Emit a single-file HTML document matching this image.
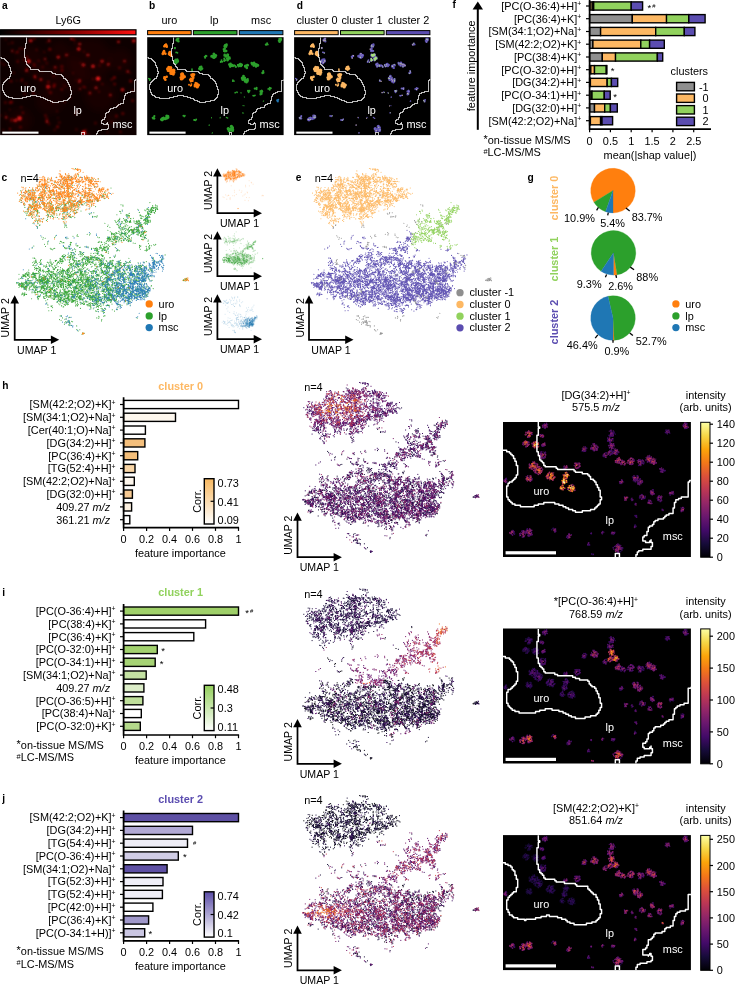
<!DOCTYPE html>
<html lang="en"><head><meta charset="utf-8"><title>Figure</title>
<style>html,body{margin:0;padding:0;background:#fff;overflow:hidden}svg{display:block;font-family:"Liberation Sans",Arial,sans-serif;font-size:10.9px;fill:#000}.b{font-weight:bold}.i{font-style:italic}.w{fill:#fff}.e{text-anchor:end}.m{text-anchor:middle}.ax{stroke:#000;stroke-width:1.7;fill:none}.tk{stroke:#000;stroke-width:1.2;fill:none}.bar{stroke:#000;stroke-width:1.4}.pt{fill:none;stroke-linecap:round}.ps{fill:none;stroke-linecap:square}.ct{fill:none;stroke:#fff;stroke-linejoin:round}</style></head><body>
<svg width="735" height="999" viewBox="0 0 735 999">
<clipPath id="cpa"><rect x="0.1" y="37.2" width="136.4" height="97.9"/></clipPath>
<rect x="0.1" y="37.2" width="136.4" height="97.9" fill="#0e0000"/>
<g clip-path="url(#cpa)">
<filter id="bl" x="-20%" y="-20%" width="140%" height="140%"><feGaussianBlur stdDeviation="0.8"/></filter>
<filter id="bl2" x="-20%" y="-20%" width="140%" height="140%"><feGaussianBlur stdDeviation="3"/></filter>
<g filter="url(#bl2)" fill="#4a0000"><circle cx="90.1" cy="60.2" r="22" opacity="0.15"/><circle cx="70.1" cy="75.2" r="18" opacity="0.15"/><circle cx="30.1" cy="60.2" r="14" opacity="0.15"/><circle cx="100.1" cy="95.2" r="16" opacity="0.15"/><circle cx="20.1" cy="120.2" r="12" opacity="0.15"/><circle cx="50.1" cy="100.2" r="14" opacity="0.15"/><circle cx="120.1" cy="60.2" r="12" opacity="0.15"/><circle cx="60.1" cy="50.2" r="10" opacity="0.15"/><circle cx="45.1" cy="75.2" r="12" opacity="0.15"/><circle cx="110.1" cy="120.2" r="8" opacity="0.15"/></g>
<g filter="url(#bl)"><circle cx="98.1" cy="78.6" r="2.2" fill="#ff1a1a" opacity="0.95"/><circle cx="78.7" cy="49.0" r="1.8" fill="#ff1a1a" opacity="0.80"/><circle cx="28.7" cy="61.2" r="2.0" fill="#ff1a1a" opacity="0.80"/><circle cx="48.1" cy="86.7" r="2.0" fill="#ff1a1a" opacity="0.80"/><circle cx="93.0" cy="66.3" r="1.8" fill="#ff1a1a" opacity="0.80"/><circle cx="83.4" cy="64.9" r="1.7" fill="#ff1a1a" opacity="0.70"/><circle cx="19.5" cy="118.4" r="2.4" fill="#ff1a1a" opacity="0.80"/><circle cx="58.3" cy="57.1" r="1.7" fill="#ff1a1a" opacity="0.70"/><circle cx="15.4" cy="120.4" r="1.8" fill="#ff1a1a" opacity="0.70"/><circle cx="122.5" cy="89.8" r="1.8" fill="#ff1a1a" opacity="0.70"/><circle cx="83.8" cy="132.7" r="2.2" fill="#ff1a1a" opacity="1.00"/><circle cx="30.7" cy="40.8" r="1.8" fill="#ff1a1a" opacity="0.70"/><circle cx="133.8" cy="40.8" r="1.7" fill="#ff1a1a" opacity="0.70"/><circle cx="102.1" cy="61.2" r="1.7" fill="#ff1a1a" opacity="0.60"/><circle cx="87.9" cy="55.1" r="1.5" fill="#ff1a1a" opacity="0.60"/><circle cx="108.3" cy="64.3" r="1.5" fill="#ff1a1a" opacity="0.60"/><circle cx="40.9" cy="79.6" r="1.5" fill="#ff1a1a" opacity="0.60"/><circle cx="118.5" cy="41.8" r="1.5" fill="#ff1a1a" opacity="0.60"/><circle cx="79.7" cy="43.9" r="1.5" fill="#ff1a1a" opacity="0.60"/><circle cx="26.6" cy="70.4" r="1.5" fill="#ff1a1a" opacity="0.60"/><circle cx="34.8" cy="76.5" r="1.5" fill="#ff1a1a" opacity="0.60"/><circle cx="66.4" cy="55.1" r="1.5" fill="#ff1a1a" opacity="0.50"/><circle cx="49.1" cy="40.8" r="1.5" fill="#ff1a1a" opacity="0.50"/><circle cx="110.3" cy="94.9" r="1.5" fill="#ff1a1a" opacity="0.50"/><circle cx="89.9" cy="92.9" r="1.5" fill="#ff1a1a" opacity="0.50"/><circle cx="47.0" cy="121.4" r="1.5" fill="#ff1a1a" opacity="0.60"/><circle cx="6.2" cy="117.3" r="1.5" fill="#ff1a1a" opacity="0.50"/><circle cx="79.7" cy="80.6" r="1.5" fill="#ff1a1a" opacity="0.50"/><circle cx="127.7" cy="71.4" r="1.5" fill="#ff1a1a" opacity="0.50"/><circle cx="71.5" cy="38.8" r="1.4" fill="#ff1a1a" opacity="0.50"/><circle cx="96.0" cy="87.8" r="1.5" fill="#ff1a1a" opacity="0.60"/><circle cx="114.4" cy="77.6" r="1.4" fill="#ff1a1a" opacity="0.50"/><circle cx="124.6" cy="61.2" r="1.4" fill="#ff1a1a" opacity="0.50"/><circle cx="12.3" cy="51.0" r="1.4" fill="#ff1a1a" opacity="0.40"/><circle cx="55.2" cy="67.3" r="1.4" fill="#ff1a1a" opacity="0.50"/><circle cx="44.3" cy="52.0" r="1.4" fill="#e01010" opacity="0.17"/><circle cx="73.2" cy="73.0" r="0.9" fill="#e01010" opacity="0.30"/><circle cx="5.2" cy="79.7" r="0.9" fill="#e01010" opacity="0.18"/><circle cx="58.0" cy="118.1" r="1.0" fill="#e01010" opacity="0.22"/><circle cx="85.7" cy="130.0" r="1.3" fill="#e01010" opacity="0.27"/><circle cx="133.3" cy="41.8" r="1.5" fill="#e01010" opacity="0.24"/><circle cx="19.8" cy="48.7" r="1.1" fill="#e01010" opacity="0.39"/><circle cx="24.8" cy="94.1" r="1.3" fill="#e01010" opacity="0.26"/><circle cx="74.8" cy="43.3" r="0.9" fill="#e01010" opacity="0.21"/><circle cx="92.9" cy="79.1" r="1.1" fill="#e01010" opacity="0.33"/><circle cx="61.9" cy="66.5" r="1.5" fill="#e01010" opacity="0.36"/><circle cx="33.4" cy="93.4" r="1.3" fill="#e01010" opacity="0.41"/><circle cx="99.6" cy="65.4" r="1.6" fill="#e01010" opacity="0.19"/><circle cx="57.1" cy="111.3" r="1.0" fill="#e01010" opacity="0.30"/><circle cx="5.4" cy="102.6" r="1.4" fill="#e01010" opacity="0.32"/><circle cx="119.5" cy="67.9" r="1.4" fill="#e01010" opacity="0.33"/><circle cx="79.2" cy="81.9" r="1.5" fill="#e01010" opacity="0.43"/><circle cx="64.8" cy="102.2" r="0.9" fill="#e01010" opacity="0.36"/><circle cx="88.4" cy="134.4" r="1.5" fill="#e01010" opacity="0.24"/><circle cx="52.7" cy="102.7" r="0.9" fill="#e01010" opacity="0.29"/><circle cx="23.0" cy="48.7" r="0.9" fill="#e01010" opacity="0.38"/><circle cx="17.7" cy="61.4" r="1.2" fill="#e01010" opacity="0.41"/><circle cx="11.1" cy="81.2" r="1.3" fill="#e01010" opacity="0.42"/><circle cx="111.8" cy="121.8" r="1.1" fill="#e01010" opacity="0.27"/><circle cx="49.0" cy="123.8" r="1.6" fill="#e01010" opacity="0.20"/><circle cx="24.1" cy="59.9" r="1.1" fill="#e01010" opacity="0.30"/><circle cx="80.5" cy="62.9" r="0.9" fill="#e01010" opacity="0.28"/><circle cx="50.5" cy="92.6" r="1.6" fill="#e01010" opacity="0.36"/><circle cx="70.4" cy="97.7" r="1.4" fill="#e01010" opacity="0.17"/><circle cx="122.8" cy="113.6" r="1.5" fill="#e01010" opacity="0.39"/><circle cx="53.6" cy="76.3" r="1.0" fill="#e01010" opacity="0.34"/><circle cx="8.6" cy="43.8" r="1.0" fill="#e01010" opacity="0.20"/><circle cx="46.5" cy="42.3" r="0.9" fill="#e01010" opacity="0.20"/><circle cx="13.9" cy="72.8" r="0.9" fill="#e01010" opacity="0.41"/><circle cx="83.9" cy="51.7" r="1.1" fill="#e01010" opacity="0.25"/><circle cx="49.8" cy="49.2" r="1.5" fill="#e01010" opacity="0.45"/><circle cx="63.7" cy="84.6" r="1.0" fill="#e01010" opacity="0.18"/><circle cx="46.8" cy="63.1" r="1.5" fill="#e01010" opacity="0.20"/><circle cx="3.3" cy="130.3" r="1.3" fill="#e01010" opacity="0.19"/><circle cx="74.2" cy="39.8" r="1.3" fill="#e01010" opacity="0.44"/><circle cx="117.9" cy="105.4" r="1.1" fill="#e01010" opacity="0.26"/><circle cx="22.9" cy="112.8" r="1.3" fill="#e01010" opacity="0.38"/><circle cx="45.1" cy="59.0" r="1.5" fill="#e01010" opacity="0.45"/><circle cx="116.4" cy="116.1" r="1.5" fill="#e01010" opacity="0.37"/><circle cx="31.0" cy="87.9" r="1.1" fill="#e01010" opacity="0.16"/><circle cx="3.9" cy="64.6" r="1.1" fill="#e01010" opacity="0.36"/><circle cx="130.6" cy="81.0" r="1.6" fill="#e01010" opacity="0.45"/><circle cx="130.4" cy="72.9" r="1.1" fill="#e01010" opacity="0.22"/><circle cx="26.9" cy="57.2" r="1.3" fill="#e01010" opacity="0.42"/><circle cx="114.7" cy="84.1" r="1.4" fill="#e01010" opacity="0.39"/><circle cx="11.7" cy="101.9" r="1.5" fill="#e01010" opacity="0.38"/><circle cx="102.4" cy="84.0" r="1.0" fill="#e01010" opacity="0.39"/><circle cx="45.5" cy="115.6" r="1.6" fill="#e01010" opacity="0.27"/><circle cx="54.8" cy="129.9" r="1.4" fill="#e01010" opacity="0.20"/><circle cx="17.4" cy="52.0" r="1.5" fill="#e01010" opacity="0.39"/><circle cx="20.0" cy="118.1" r="1.6" fill="#e01010" opacity="0.35"/><circle cx="47.9" cy="90.9" r="1.0" fill="#e01010" opacity="0.15"/><circle cx="132.5" cy="100.8" r="1.3" fill="#e01010" opacity="0.43"/><circle cx="59.3" cy="122.5" r="1.5" fill="#e01010" opacity="0.21"/><circle cx="34.5" cy="65.9" r="1.1" fill="#e01010" opacity="0.33"/><circle cx="35.5" cy="78.2" r="1.0" fill="#e01010" opacity="0.42"/><circle cx="48.4" cy="82.1" r="1.3" fill="#e01010" opacity="0.42"/><circle cx="57.5" cy="127.0" r="1.3" fill="#e01010" opacity="0.31"/><circle cx="71.5" cy="39.0" r="1.2" fill="#e01010" opacity="0.20"/><circle cx="0.6" cy="115.4" r="1.0" fill="#e01010" opacity="0.29"/><circle cx="99.0" cy="91.7" r="1.1" fill="#e01010" opacity="0.31"/><circle cx="75.9" cy="114.0" r="1.0" fill="#e01010" opacity="0.32"/><circle cx="34.0" cy="64.3" r="1.4" fill="#e01010" opacity="0.30"/><circle cx="76.7" cy="111.6" r="1.5" fill="#e01010" opacity="0.28"/><circle cx="83.6" cy="86.7" r="1.3" fill="#e01010" opacity="0.36"/><circle cx="61.8" cy="89.4" r="1.2" fill="#e01010" opacity="0.43"/><circle cx="95.5" cy="123.0" r="1.6" fill="#e01010" opacity="0.23"/><circle cx="76.4" cy="129.5" r="1.5" fill="#e01010" opacity="0.19"/><circle cx="16.7" cy="80.5" r="1.0" fill="#e01010" opacity="0.22"/><circle cx="10.1" cy="102.7" r="1.4" fill="#e01010" opacity="0.42"/><circle cx="21.2" cy="107.3" r="1.4" fill="#e01010" opacity="0.19"/><circle cx="120.5" cy="131.9" r="1.1" fill="#e01010" opacity="0.44"/><circle cx="54.4" cy="84.9" r="1.6" fill="#e01010" opacity="0.40"/><circle cx="22.1" cy="79.4" r="1.3" fill="#e01010" opacity="0.25"/><circle cx="26.8" cy="68.4" r="1.4" fill="#e01010" opacity="0.16"/><circle cx="75.7" cy="80.3" r="0.9" fill="#e01010" opacity="0.25"/><circle cx="85.2" cy="87.4" r="0.9" fill="#e01010" opacity="0.45"/><circle cx="107.6" cy="132.3" r="1.0" fill="#e01010" opacity="0.23"/><circle cx="5.5" cy="113.5" r="1.1" fill="#e01010" opacity="0.19"/><circle cx="57.7" cy="126.4" r="1.5" fill="#e01010" opacity="0.23"/><circle cx="20.5" cy="127.2" r="1.3" fill="#e01010" opacity="0.36"/><circle cx="12.3" cy="42.8" r="1.4" fill="#e01010" opacity="0.28"/><circle cx="10.0" cy="129.1" r="1.3" fill="#e01010" opacity="0.39"/><circle cx="11.5" cy="121.0" r="0.9" fill="#e01010" opacity="0.41"/><circle cx="62.0" cy="70.4" r="1.3" fill="#e01010" opacity="0.43"/><circle cx="36.6" cy="49.9" r="1.3" fill="#e01010" opacity="0.22"/><circle cx="15.0" cy="53.0" r="0.9" fill="#e01010" opacity="0.21"/><circle cx="42.7" cy="67.1" r="1.4" fill="#e01010" opacity="0.24"/><circle cx="68.3" cy="54.6" r="1.1" fill="#e01010" opacity="0.16"/><circle cx="34.3" cy="38.7" r="1.4" fill="#e01010" opacity="0.32"/><circle cx="25.9" cy="83.7" r="1.6" fill="#e01010" opacity="0.18"/><circle cx="111.8" cy="79.5" r="1.2" fill="#e01010" opacity="0.40"/><circle cx="53.7" cy="86.8" r="1.4" fill="#e01010" opacity="0.44"/><circle cx="46.8" cy="118.7" r="1.4" fill="#e01010" opacity="0.34"/><circle cx="55.3" cy="71.2" r="0.9" fill="#e01010" opacity="0.19"/><circle cx="9.7" cy="109.7" r="1.1" fill="#e01010" opacity="0.20"/><circle cx="11.6" cy="119.6" r="1.5" fill="#e01010" opacity="0.35"/><circle cx="38.6" cy="60.9" r="1.1" fill="#e01010" opacity="0.29"/><circle cx="21.6" cy="80.8" r="1.1" fill="#e01010" opacity="0.44"/><circle cx="132.8" cy="90.8" r="1.1" fill="#e01010" opacity="0.44"/><circle cx="42.3" cy="72.1" r="0.9" fill="#e01010" opacity="0.26"/><circle cx="64.8" cy="86.4" r="1.0" fill="#e01010" opacity="0.30"/><circle cx="0.8" cy="63.1" r="1.0" fill="#e01010" opacity="0.27"/><circle cx="5.8" cy="39.4" r="1.1" fill="#e01010" opacity="0.22"/><circle cx="80.0" cy="89.0" r="1.4" fill="#e01010" opacity="0.35"/></g>
<path class="ct" stroke-width="1.0" stroke="#e4e4e4" d="M26.5 37.5V38.5V39.5V40.5V41.5V42.5V43.5H25.5V44.5V45.5V46.5V47.5V48.5H24.5V49.5V50.5V51.5V52.5V53.5V54.5V55.5V56.5V57.5H25.5V58.5V59.5V60.5V61.5H26.5V62.5V63.5V64.5H27.5V65.5H28.5V66.5H29.5V67.5H30.5V68.5V69.5H31.5H32.5H33.5H34.5H35.5H36.5H37.5H38.5V70.5H39.5V71.5H40.5H41.5H42.5H43.5H44.5H45.5H46.5H47.5H48.5H49.5H50.5H51.5V72.5H52.5V73.5H53.5H54.5H55.5V74.5H56.5H57.5H58.5H59.5H60.5H61.5V75.5H62.5V76.5H63.5V77.5V78.5H64.5H65.5V79.5H66.5V80.5H67.5V81.5V82.5H68.5V83.5V84.5H69.5V85.5V86.5H70.5V87.5V88.5V89.5V90.5H71.5V91.5V92.5V93.5V94.5H70.5V95.5V96.5V97.5H69.5V98.5H68.5V99.5H67.5V100.5H66.5H65.5H64.5H63.5V101.5H62.5H61.5H60.5H59.5H58.5V102.5H57.5H56.5H55.5H54.5H53.5H52.5V101.5H51.5H50.5V100.5H49.5H48.5H47.5V99.5H46.5H45.5V98.5H44.5H43.5V97.5H42.5H41.5H40.5V96.5H39.5H38.5H37.5H36.5V95.5H35.5H34.5H33.5H32.5H31.5H30.5V96.5H29.5H28.5H27.5H26.5V97.5H25.5H24.5H23.5H22.5V98.5H21.5H20.5H19.5H18.5H17.5H16.5H15.5H14.5H13.5H12.5V97.5H11.5H10.5H9.5H8.5V96.5H7.5H6.5V95.5H5.5V94.5H4.5V93.5V92.5H3.5V91.5V90.5H2.5V89.5V88.5V87.5V86.5V85.5V84.5H3.5V83.5V82.5H4.5V81.5H5.5V80.5H6.5V79.5H7.5V78.5H8.5H9.5V77.5V76.5H10.5V75.5V74.5V73.5H11.5V72.5V71.5H10.5V70.5V69.5V68.5V67.5H9.5V66.5V65.5H8.5V64.5V63.5V62.5H7.5V61.5H6.5V60.5H5.5V59.5H4.5V58.5H3.5H2.5H1.5V57.5H0.5M136.5 79.5H135.5V80.5H134.5V81.5V82.5V83.5V84.5V85.5V86.5V87.5V88.5V89.5V90.5V91.5H133.5H132.5H131.5H130.5V92.5H129.5H128.5H127.5V93.5H126.5H125.5V94.5V95.5H124.5V96.5V97.5V98.5V99.5H123.5V100.5V101.5V102.5V103.5H122.5H121.5H120.5V104.5H119.5H118.5V105.5H117.5V106.5H116.5V107.5H115.5H114.5H113.5V108.5H112.5H111.5H110.5V109.5H109.5V110.5V111.5H108.5V112.5H107.5H106.5V113.5H105.5V114.5V115.5V116.5V117.5H104.5V118.5V119.5H103.5H102.5V120.5H101.5V121.5V122.5V123.5H102.5H103.5V124.5H104.5H105.5H106.5V123.5H107.5V122.5V123.5V124.5H108.5V125.5V126.5V127.5V128.5H107.5V129.5H106.5H105.5H104.5H103.5H102.5H101.5V130.5H100.5H99.5H98.5V131.5H97.5V132.5V133.5H96.5V134.5V135.5M81.5 135.5V134.5V133.5V132.5H82.5H83.5H84.5V133.5V134.5V135.5"/>
</g>
<text x="28.1" y="92.4" class="m w">uro</text>
<text x="77.7" y="114" class="m w">lp</text>
<text x="122.5" y="128" class="m w">msc</text>
<rect x="2.3" y="131.6" width="36.2" height="2.1" fill="#fff"/>
<clipPath id="cpb"><rect x="147.2" y="37.2" width="136.4" height="97.9"/></clipPath>
<rect x="147.2" y="37.2" width="136.4" height="97.9" fill="#000"/>
<g clip-path="url(#cpb)">
<path class="pt" stroke="#ff7f0e" stroke-width="3.4" d="M181.1 77.6zm3.2-.9zm-2.7 .5zm.8 1.1zm-.4-3.4zm.5 2.4zm.5-1.9zm-1.5 3.5zm.2-4.7zm.1 1.4zm.6-1.6zm.6 2.4z"/>
<path class="pt" stroke="#2ca02c" stroke-width="3.4" d="M232.5 130.4zm-1.1-4zm-2.2 4.3zm3.2-2.9zm-4.1 .9zm4.3 1zm-.2 .4zm-.2-2.2zm-3.3 1.4zm2.7-.3zm.8-1.3zm-.3 .9z"/>
<path class="pt" stroke="#ff7f0e" stroke-width="3.2" d="M167.6 68.9zm1.2-1.6zm-.5 1.8zm-.1 1.3zm-.1-1.2zm.6 1.1zm2.1-2.6zm-1 .7zm-.5 2.3zm1-1.3zm.5 3.9zm.5-2.4zm.3 1.3zm2.3-1.9zm-.6 3.8zm-1.1-3.8zm1.4-.1zm-2 3.3zm1-2.4zm1.3 1.3z"/>
<path class="pt" stroke="#ff7f0e" stroke-width="3.0" d="M195.8 83.3zm1 2.8zm-1.1-.5zm-.7 .3zm2.3 1.2zm-2.2-2.1zm3.4 .1zm-.8 1.3zm-.8-2.7z"/>
<path class="pt" stroke="#2ca02c" stroke-width="3.0" d="M174.7 61zm2.8 .5zm.2-.6zm-3.4 .6zm1.7 1.5zm-.9-2.3zm2.1-1zm-1.4 .2zm1.3 .3zm37.7-4.3zm-.9-1.8zm1.9 1.3zm-1.9 2.2zm-.7-.6zm.2-.2zm1.7-.1zm-2.4-.5zm-1 .1zm-43.7 60.9zm-.1-.9zm-.3 1.5zm-.4-1.3zm-.7 1.4zm.6 .2zm-.6 .2zm-1.4 .4zm1.6-2.8z"/>
<path class="pt" stroke="#ff7f0e" stroke-width="2.8" d="M169.4 53.6zm1.5 1.1zm-1.8-.7zm.4-1.4zm.6 1.5zm1 1.5zm-1.7-1.1zm.6-2.3z"/>
<path class="pt" stroke="#2ca02c" stroke-width="2.8" d="M238.6 66.1zm.6-1.2zm2 0zm-3 .3zm2.7 .7zm-.6-1.8zm1.4 .9zm-.3 .1zm2.1 11.1zm-1.3 2.3zm2.4 .2zm-2.4-.7zm1.2 1.4zm-.6 .3zm.6-.6zm1.3-1.3zm-83.1 41.5zm1.8-1.2zm-2.1 1.5zm1.6-.6zm-.7-.3zm.6 .8zm.8-1.3zm-1.5 1.9z"/>
<path class="pt" stroke="#ff7f0e" stroke-width="2.6" d="M166 44.5zm.8 2.3zm-2.5-.5zm2.3-.4zm-1.4-.9zm-.4 1.1zm.4-.9zm-1.1 7zm-.1-1.1zm1.4 2.7zm-1.2-2.2zm-1.4 2.4zm-.1-.3zm.6-1.3zm1 25.9zm.1-.6zm0-.4zm.7 2.1zm-.5-1.2zm.8 1.5zm1.3-3zm27.4-2.1zm-2.6 .3zm1.4-.7zm.4 3.6zm-1.2-3zm-.1 1.5zm1.6-.8z"/>
<path class="pt" stroke="#2ca02c" stroke-width="2.6" d="M177.4 40.5zm1 .7zm-.3-2.5zm-1.2 1.2zm-.2 .3zm1.5-1.4zm-1 .6zm22.3 29.3zm1.8 .6zm-.7 .3zm.6-2.9zm.9 1.9zm-2.8 .2zm.7-1.4zm25.1-22.1zm1 1.3zm-1.1-.4zm.4-.3zm1.1-1.4zm-1.9 1.7zm2-1.1zm-1.9 9.7zm2.7-.1zm.5 0zm-3.3 .8zm.6 .2zm2.6-.2zm-1.9 1zm3.5 1.1zm-1.7 2.5zm1.9-1.7zm-2.4 .4zm1.6-1.4zm-1.2 2.8zm1-3zm3.5 7.9zm-2.2 .5zm-.3-1.3zm.9-.6zm-1.2 .8zm2.7 1.3zm-1.8 .8zm15.4-.9zm-.4 .7zm0-.3zm2.2-1.1zm-.6 2.9zm1-2.7zm-1.1 2.6zm7.5-4.2zm-2.5-.6zm2 2.6zm.6-2.2zm-.2-.7zm-2 1.5zm1.6 1.4zm2.2-1.2zm2.1 1zm-2 1zm.8-1.8zm0 .2zm-.2-.3zm.4 1.2zm23.9-26zm-1.3 2zm1-1.4zm-1-1.3zm-.6 1.8zm1.2-1.7zm.4-.5zm-35.5 42.8zm2.5-2.1zm.1 1.5zm-.4 .7zm-1.4-1.5zm-1.1 .4zm1.7 1.9zm14.3 11.6zm.6-.2zm.6-2.1zm-.3-.6zm-1 3.2zm.9-3.2zm-.9 .4z"/>
<path class="pt" stroke="#ff7f0e" stroke-width="2.4" d="M190.1 79.8zm.8 1.4zm1.4-1.5zm-1.4-1.1zm1.8 .4zm-.1 1.7z"/>
<path class="pt" stroke="#2ca02c" stroke-width="2.4" d="M226.3 51zm-2.2-.1zm-.3-1.6zm1-1.1zm.4 2.2zm-.3 .8z"/>
<path class="pt" stroke="#2ca02c" stroke-width="2.1" d="M205.1 57.8zm.8-2.1zm.5 .3zm-.3 .1zm-1.3 .6zm20.1 3.4zm-.6 .1zm0-1.6zm-.1 2.3zm1.2-.7zm10.5 6.7zm-2.9-.6zm2-.6zm.7 1zm-1.7-1.4zm29.2 5.8zm.3 1.7zm-.8 .5zm.7-1.1zm-1.1 .7zm-5.9 16zm.2 .2zm-1.9-.5zm1.4 .1zm.5-.8zm-8.6 3zm.1 .1zm1.4-.2zm-.5 .4zm-.3 1zm-95.6 26.3zm-.4-.8zm1.7-1.6zm0 2.5zm-.2-2.2z"/>
<path class="pt" stroke="#ff7f0e" stroke-width="1.9" d="M190.7 85.7zm.5-.4zm.2-1.2zm-2.4 .6z"/>
<path class="pt" stroke="#2ca02c" stroke-width="1.9" d="M222.2 61.8zm-1.4-.2zm.8-1.5zm-.9 1.9zm45.4-17.1zm1-1.6zm-1.4 1.2zm2.1 0zm1.9 45.2zm1.2-1.4zm-2.6 .6zm1.4-1.1zm-73.5 31.6zm-.7 .8zm-1.2-.2zm-.2-.1z"/>
<path class="pt" stroke="#1f77b4" stroke-width="1.9" d="M277.5 101.3zm-.4-1zm1.2-.5zm-.4 1.7z"/>
<path class="pt" stroke="#2ca02c" stroke-width="1.7" d="M174.7 47.9zm.5-.1zm-.2 .7zm2.5 4.3zm-1.4-.4zm1 .1zm-27.4 27.6zm.2-.9zm-1.1-.7zm43.3-7.9zm0 .2zm-.1-1.6zm42 11.9zm-1.1-1zm-.2 1zm20.4 14.5zm1.9-.3zm-1 .5zm-16.9-3.5zm-1.9 .4zm1.7-.7zm-52 23.7zm-1.6 0zm1 .7z"/>
<path class="pt" stroke="#2ca02c" stroke-width="1.5" d="M227.6 118.1zm-1.1-.6z"/>
<path class="pt" stroke="#2ca02c" stroke-width="1.3" d="M241.1 92.9zm-.2-.1zm-31.5 32.3zm-.3 .1z"/>
<path class="pt" stroke="#2ca02c" stroke-width="1.1" d="M244.3 96.8zm.1 .3zm-1.4 8.5zm1.1 .1zm-.5 7.3zm-1-.1zm-22.5 5zm.1-.5z"/>
<path class="pt" stroke="#2ca02c" stroke-width="1.0" d="M211.4 117.5zm0 .5zm.7 15.3zm.4-.6zm51.2-31.8zm-.5 .5z"/>
<path class="ct" stroke-width="1.0" stroke="#e4e4e4" d="M173.5 37.5V38.5V39.5V40.5V41.5V42.5V43.5H172.5V44.5V45.5V46.5V47.5V48.5H171.5V49.5V50.5V51.5V52.5V53.5V54.5V55.5V56.5H172.5V57.5V58.5V59.5V60.5H173.5V61.5V62.5V63.5H174.5V64.5H175.5V65.5V66.5H176.5V67.5H177.5V68.5V69.5H178.5H179.5H180.5H181.5H182.5H183.5H184.5H185.5V70.5H186.5V71.5H187.5H188.5H189.5H190.5H191.5H192.5H193.5H194.5H195.5H196.5H197.5H198.5V72.5H199.5V73.5H200.5H201.5H202.5V74.5H203.5H204.5H205.5H206.5H207.5H208.5V75.5H209.5V76.5H210.5V77.5V78.5H211.5H212.5V79.5H213.5V80.5H214.5V81.5H215.5V82.5V83.5H216.5V84.5V85.5V86.5H217.5V87.5V88.5V89.5H218.5V90.5V91.5V92.5V93.5V94.5H217.5V95.5V96.5V97.5H216.5V98.5H215.5V99.5H214.5V100.5H213.5H212.5H211.5H210.5V101.5H209.5H208.5H207.5H206.5H205.5V102.5H204.5H203.5H202.5H201.5H200.5H199.5V101.5H198.5H197.5V100.5H196.5H195.5H194.5V99.5H193.5V98.5H192.5H191.5H190.5V97.5H189.5H188.5H187.5V96.5H186.5H185.5H184.5H183.5V95.5H182.5H181.5H180.5H179.5H178.5H177.5V96.5H176.5H175.5H174.5H173.5V97.5H172.5H171.5H170.5H169.5V98.5H168.5H167.5H166.5H165.5H164.5H163.5H162.5H161.5H160.5H159.5V97.5H158.5H157.5H156.5H155.5V96.5H154.5V95.5H153.5H152.5V94.5H151.5V93.5V92.5H150.5V91.5V90.5V89.5H149.5V88.5V87.5V86.5V85.5V84.5H150.5V83.5V82.5H151.5V81.5H152.5V80.5H153.5V79.5H154.5V78.5H155.5H156.5V77.5V76.5H157.5V75.5V74.5V73.5H158.5V72.5V71.5H157.5V70.5V69.5V68.5V67.5H156.5V66.5V65.5H155.5V64.5V63.5V62.5H154.5V61.5H153.5V60.5H152.5V59.5H151.5V58.5H150.5H149.5H148.5V57.5H147.5M283.5 79.5V80.5H282.5H281.5V81.5V82.5V83.5V84.5V85.5V86.5V87.5V88.5V89.5V90.5V91.5H280.5H279.5H278.5H277.5V92.5H276.5H275.5V93.5H274.5H273.5V94.5H272.5V95.5V96.5H271.5V97.5V98.5V99.5V100.5H270.5V101.5V102.5V103.5H269.5H268.5H267.5V104.5H266.5H265.5V105.5H264.5V106.5V107.5H263.5H262.5H261.5H260.5V108.5H259.5H258.5H257.5V109.5H256.5V110.5V111.5H255.5V112.5H254.5H253.5V113.5H252.5V114.5V115.5V116.5V117.5H251.5V118.5V119.5H250.5H249.5V120.5H248.5V121.5V122.5V123.5H249.5H250.5V124.5H251.5H252.5H253.5V123.5H254.5V122.5V123.5H255.5V124.5V125.5V126.5V127.5V128.5H254.5V129.5H253.5H252.5H251.5H250.5H249.5H248.5V130.5H247.5H246.5V131.5H245.5H244.5V132.5V133.5H243.5V134.5V135.5M229.5 135.5V134.5V133.5V132.5H230.5H231.5V133.5V134.5V135.5"/>
</g>
<text x="175.2" y="92.4" class="m w">uro</text>
<text x="224.8" y="114" class="m w">lp</text>
<text x="269.6" y="128" class="m w">msc</text>
<rect x="149.4" y="131.6" width="36.2" height="2.1" fill="#fff"/>
<clipPath id="cpd"><rect x="294.1" y="37.2" width="136.4" height="97.9"/></clipPath>
<rect x="294.1" y="37.2" width="136.4" height="97.9" fill="#000"/>
<g clip-path="url(#cpd)">
<path class="pt" stroke="#fdb863" stroke-width="3.4" d="M328 77.6zm3.2-.9zm-2.7 .5zm.8 1.1zm-.4-3.4zm.5 2.4zm.5-1.9zm-1.5 3.5zm.2-4.7zm.1 1.4zm.6-1.6zm.6 2.4z"/>
<path class="pt" stroke="#6357b6" stroke-width="3.3" d="M379.4 130.4zm-1.1-4zm-2.2 4.3zm3.2-2.9zm-4.1 .9zm4.3 1zm-.2 .4zm-.2-2.2zm-3.3 1.4zm2.7-.3zm.8-1.3zm-.3 .9z"/>
<path class="pt" stroke="#fdb863" stroke-width="3.2" d="M314.5 68.9zm1.2-1.6zm-.5 1.8zm-.1 1.3zm-.1-1.2zm.6 1.1zm2.1-2.6zm-1 .7zm-.5 2.3zm1-1.3zm.5 3.9zm.5-2.4zm.3 1.3zm2.3-1.9zm-.6 3.8zm-1.1-3.8zm1.4-.1zm-2 3.3zm1-2.4zm1.3 1.3z"/>
<path class="pt" stroke="#fdb863" stroke-width="3.0" d="M342.7 83.3zm1 2.8zm-1.1-.5zm-.7 .3zm2.3 1.2zm-2.2-2.1zm3.4 .1zm-.8 1.3zm-.8-2.7z"/>
<path class="pt" stroke="#6357b6" stroke-width="2.9" d="M321.6 61zm2.8 .5zm.2-.6zm-3.4 .6zm1.7 1.5zm-.9-2.3zm2.1-1zm-1.4 .2zm1.3 .3zm37.7-4.3zm-.9-1.8zm1.9 1.3zm-1.9 2.2zm-.7-.6zm.2-.2zm1.7-.1zm-2.4-.5zm-1 .1zm-43.7 60.9zm-.1-.9zm-.3 1.5zm-.4-1.3zm-.7 1.4zm.6 .2zm-.6 .2zm-1.4 .4zm1.6-2.8z"/>
<path class="pt" stroke="#fdb863" stroke-width="2.8" d="M316.3 53.6zm1.5 1.1zm-1.8-.7zm.4-1.4zm.6 1.5zm1 1.5zm-1.7-1.1zm.6-2.3z"/>
<path class="pt" stroke="#6357b6" stroke-width="2.7" d="M385.5 66.1zm.6-1.2zm2 0zm-3 .3zm2.7 .7zm-.6-1.8zm1.4 .9zm-.3 .1zm2.1 11.1zm-1.3 2.3zm2.4 .2zm-2.4-.7zm1.2 1.4zm-.6 .3zm.6-.6zm1.3-1.3zm-83.1 41.5zm1.8-1.2zm-2.1 1.5zm1.6-.6zm-.7-.3zm.6 .8zm.8-1.3zm-1.5 1.9z"/>
<path class="pt" stroke="#fdb863" stroke-width="2.6" d="M312.9 44.5zm.8 2.3zm-2.5-.5zm2.3-.4zm-1.4-.9zm-.4 1.1zm.4-.9zm-1.1 7zm-.1-1.1zm1.4 2.7zm-1.2-2.2zm-1.4 2.4zm-.1-.3zm.6-1.3zm1 25.9zm.1-.6zm0-.4zm.7 2.1zm-.5-1.2zm.8 1.5zm1.3-3zm27.4-2.1zm-2.6 .3zm1.4-.7zm.4 3.6zm-1.2-3zm-.1 1.5zm1.6-.8zm5.9-6.8zm1.8 .6zm-.7 .3zm.6-2.9zm.9 1.9zm-2.8 .2zm.7-1.4z"/>
<path class="pt" stroke="#6a5cb5" stroke-width="2.6" d="M371.6 54.8zm2.7-.1zm.5 0zm-3.3 .8zm.6 .2zm2.6-.2zm-1.9 1zm3.5 1.1zm-1.7 2.5zm1.9-1.7zm-2.4 .4zm1.6-1.4zm-1.2 2.8zm1-3z"/>
<path class="pt" stroke="#fdb863" stroke-width="2.4" d="M337 79.8zm.8 1.4zm1.4-1.5zm-1.4-1.1zm1.8 .4zm-.1 1.7z"/>
<path class="pt" stroke="#6357b6" stroke-width="2.4" d="M324.3 40.5zm1 .7zm-.3-2.5zm-1.2 1.2zm-.2 .3zm1.5-1.4zm-1 .6zm47.9 5.9zm1 1.3zm-1.1-.4zm.4-.3zm1.1-1.4zm-1.9 1.7zm2-1.1zm5.5 20zm-2.2 .5zm-.3-1.3zm.9-.6zm-1.2 .8zm2.7 1.3zm-1.8 .8zm15.4-.9zm-.4 .7zm0-.3zm2.2-1.1zm-.6 2.9zm1-2.7zm-1.1 2.6zm7.5-4.2zm-2.5-.6zm2 2.6zm.6-2.2zm-.2-.7zm-2 1.5zm1.6 1.4zm2.2-1.2zm2.1 1zm-2 1zm.8-1.8zm0 .2zm-.2-.3zm.4 1.2zm23.9-26zm-1.3 2zm1-1.4zm-1-1.3zm-.6 1.8zm1.2-1.7zm.4-.5zm-35.5 42.8zm2.5-2.1zm.1 1.5zm-.4 .7zm-1.4-1.5zm-1.1 .4zm1.7 1.9zm14.3 11.6zm.6-.2zm.6-2.1zm-.3-.6zm-1 3.2zm.9-3.2zm-.9 .4z"/>
<path class="pt" stroke="#6357b6" stroke-width="2.2" d="M373.2 51zm-2.2-.1zm-.3-1.6zm1-1.1zm.4 2.2zm-.3 .8z"/>
<path class="pt" stroke="#a6dd7c" stroke-width="2.2" d="M372 54.8zm1.9-.1zm.4 0zm-2.4 .6zm.5 .1zm1.8-.2zm-1.4 .8zm3.4 2zm-1.2 1.7zm1.3-1.2zm-1.7 .4zm1.1-1.1zm-.8 2zm.7-2z"/>
<path class="pt" stroke="#6a5cb5" stroke-width="2.1" d="M371.8 60.1zm-.6 .1zm0-1.6zm-.1 2.3zm1.2-.7z"/>
<path class="pt" stroke="#6357b6" stroke-width="2.0" d="M352 57.8zm.8-2.1zm.5 .3zm-.3 .1zm-1.3 .6zm31.1 10.2zm-2.9-.6zm2-.6zm.7 1zm-1.7-1.4zm29.2 5.8zm.3 1.7zm-.8 .5zm.7-1.1zm-1.1 .7zm-5.9 16zm.2 .2zm-1.9-.5zm1.4 .1zm.5-.8zm-8.6 3zm.1 .1zm1.4-.2zm-.5 .4zm-.3 1zm-95.6 26.3zm-.4-.8zm1.7-1.6zm0 2.5zm-.2-2.2z"/>
<path class="pt" stroke="#fdb863" stroke-width="1.9" d="M337.6 85.7zm.5-.4zm.2-1.2zm-2.4 .6z"/>
<path class="pt" stroke="#6357b6" stroke-width="1.8" d="M369.1 61.8zm-1.4-.2zm.8-1.5zm-.9 1.9zm45.4-17.1zm1-1.6zm-1.4 1.2zm2.1 0zm1.9 45.2zm1.2-1.4zm-2.6 .6zm1.4-1.1zm-73.5 31.6zm-.7 .8zm-1.2-.2zm-.2-.1zm83.4-18.6zm-.4-1zm1.2-.5zm-.4 1.7z"/>
<path class="pt" stroke="#a6dd7c" stroke-width="1.8" d="M371.8 59.9zm-.5 .1zm0-1.1zm-.1 1.6zm.9-.5z"/>
<path class="pt" stroke="#fdb863" stroke-width="1.7" d="M339 70.6zm0 .2zm-.1-1.6z"/>
<path class="pt" stroke="#6357b6" stroke-width="1.6" d="M321.6 47.9zm.5-.1zm-.2 .7zm2.5 4.3zm-1.4-.4zm1 .1zm-27.4 27.6zm.2-.9zm-1.1-.7zm85.2 2.6zm-1.1-1zm-.2 1zm20.4 14.5zm1.9-.3zm-1 .5zm-16.9-3.5zm-1.9 .4zm1.7-.7zm-52 23.7zm-1.6 0zm1 .7z"/>
<path class="pt" stroke="#6357b6" stroke-width="1.4" d="M374.5 118.1zm-1.1-.6z"/>
<path class="pt" stroke="#6357b6" stroke-width="1.2" d="M388 92.9zm-.2-.1zm-31.5 32.3zm-.3 .1z"/>
<path class="pt" stroke="#f5d8a0" stroke-width="1.0" d="M323.8 40.8zm1.2-1.9zm-.8 1.3zm-2.4 7.6zm3 13.2zm-1.5 1.7zm29-4.6zm1.1-2.6zm7.5-1.7zm9.2-4.7zm30.7 14.8zm1.4 .8zm2.8 1zm-1.1-1zm8.9-19.9zm-21 34.4zm.6 1.7zm-11.3 .6zm26.3 11.9zm-5.1 1.9zm14.1-5.9zm-34.3 3zm7.4 13.6zm-81.3 13.4zm47.9 5.6zm10.5-6.7zm9.6 12.1zm-18.2-13z"/>
<path class="pt" stroke="#bfe48e" stroke-width="1.0" d="M325.3 40.6zm-3.6 20.5zm2.9-.2zm-27.8 18.8zm72.8-17.3zm3.4-16.1zm-1.3 .3zm7.5 18.8zm.5 .7zm4.9-1zm8.1 1.4zm6.3-3.2zm2.1 .4zm12.6-20.4zm-3.5 28zm-21.6 6.9zm1 .3zm5.1 .5zm-.3 1.6zm.9 10.2zm12.9 3.2zm-24-1.4zm6.4 20.1zm-76 4.9zm-.8-.3zm-13.6 .8zm42.2 2zm37.5 9.9z"/>
<path class="pt" stroke="#c9e69c" stroke-width="1.0" d="M321.9 48.2zm2.3 5.1zm36.2 4.1zm-.3-.3zm7.6 4zm4-15.7zm5.5 20.5zm5.6 1zm3-.3zm.6-1.8zm6.1 1.3zm1.6-1.6zm8.9 2.3zm24.4-27.2zm-1.1-.2zm-17 34zm-19.3 3.1zm4.6 4.7zm-14.8-.9zm23.9 8.6zm-8.3 2.2zm1.3 0zm-8.3 2zm-79.5 26.5zm1.4-.1zm5-2.3zm-.5-1.3zm-15 1.9zm32.5-1.9zm46.5 11.6zm45.4-25.7zm-.4-1.3z"/>
<path class="pt" stroke="#8d80cc" stroke-width="1.0" d="M322.7 52.2zm-1.9 9.1zm-24.5 18.9zm56.8-24.4zm8.1-.3zm1.4-.4zm9.1-8.7zm1.3 4.2zm-1.5 0zm4.8 13.8zm.7-1zm5.1 2.1zm5.7-.6zm4.5 .8zm8.5-.1zm25.8-23.6zm1-1.9zm-17.2 32.2zm-6.8 16.9zm-1.5-.8zm6.7 3.3zm-.3-.6zm-8.4 4.8zm17.5-7.2zm-26.5 8.7zm-80.3 20.5zm3.4-.9zm-13-.6zm28.7-.3zm13.6 3zm31.3-.7zm5 11.6zm-1.1-3.9zm-3.9 2.7zm-16.2 4zm52.2-31.7z"/>
<path class="pt" stroke="#6357b6" stroke-width="1.0" d="M391.2 96.8zm.1 .3zm-1.4 8.5zm1.1 .1zm-.5 7.3zm-1-.1zm-22.5 5zm.1-.5zm-8.8 .1zm0 .5zm.7 15.3zm.4-.6zm51.2-31.8zm-.5 .5z"/>
<path class="ct" stroke-width="1.0" stroke="#e4e4e4" d="M320.5 37.5V38.5V39.5V40.5V41.5V42.5V43.5H319.5V44.5V45.5V46.5V47.5V48.5H318.5V49.5V50.5V51.5V52.5V53.5V54.5V55.5V56.5V57.5H319.5V58.5V59.5V60.5V61.5H320.5V62.5V63.5V64.5H321.5V65.5H322.5V66.5H323.5V67.5H324.5V68.5V69.5H325.5H326.5H327.5H328.5H329.5H330.5H331.5H332.5V70.5H333.5V71.5H334.5H335.5H336.5H337.5H338.5H339.5H340.5H341.5H342.5H343.5H344.5H345.5V72.5H346.5V73.5H347.5H348.5H349.5V74.5H350.5H351.5H352.5H353.5H354.5H355.5V75.5H356.5V76.5H357.5V77.5V78.5H358.5H359.5V79.5H360.5V80.5H361.5V81.5V82.5H362.5V83.5V84.5H363.5V85.5V86.5H364.5V87.5V88.5V89.5V90.5H365.5V91.5V92.5V93.5V94.5H364.5V95.5V96.5V97.5H363.5V98.5H362.5V99.5H361.5V100.5H360.5H359.5H358.5H357.5V101.5H356.5H355.5H354.5H353.5H352.5V102.5H351.5H350.5H349.5H348.5H347.5H346.5V101.5H345.5H344.5V100.5H343.5H342.5H341.5V99.5H340.5H339.5V98.5H338.5H337.5V97.5H336.5H335.5H334.5V96.5H333.5H332.5H331.5H330.5V95.5H329.5H328.5H327.5H326.5H325.5H324.5V96.5H323.5H322.5H321.5H320.5V97.5H319.5H318.5H317.5H316.5V98.5H315.5H314.5H313.5H312.5H311.5H310.5H309.5H308.5H307.5H306.5V97.5H305.5H304.5H303.5H302.5V96.5H301.5H300.5V95.5H299.5V94.5H298.5V93.5V92.5H297.5V91.5V90.5H296.5V89.5V88.5V87.5V86.5V85.5V84.5H297.5V83.5V82.5H298.5V81.5H299.5V80.5H300.5V79.5H301.5V78.5H302.5H303.5V77.5V76.5H304.5V75.5V74.5V73.5H305.5V72.5V71.5H304.5V70.5V69.5V68.5V67.5H303.5V66.5V65.5H302.5V64.5V63.5V62.5H301.5V61.5H300.5V60.5H299.5V59.5H298.5V58.5H297.5H296.5H295.5V57.5H294.5M430.5 79.5H429.5V80.5H428.5V81.5V82.5V83.5V84.5V85.5V86.5V87.5V88.5V89.5V90.5V91.5H427.5H426.5H425.5H424.5V92.5H423.5H422.5H421.5V93.5H420.5H419.5V94.5V95.5H418.5V96.5V97.5V98.5V99.5H417.5V100.5V101.5V102.5V103.5H416.5H415.5H414.5V104.5H413.5H412.5V105.5H411.5V106.5H410.5V107.5H409.5H408.5H407.5V108.5H406.5H405.5H404.5V109.5H403.5V110.5V111.5H402.5V112.5H401.5H400.5V113.5H399.5V114.5V115.5V116.5V117.5H398.5V118.5V119.5H397.5H396.5V120.5H395.5V121.5V122.5V123.5H396.5H397.5V124.5H398.5H399.5H400.5V123.5H401.5V122.5V123.5V124.5H402.5V125.5V126.5V127.5V128.5H401.5V129.5H400.5H399.5H398.5H397.5H396.5H395.5V130.5H394.5H393.5H392.5V131.5H391.5V132.5V133.5H390.5V134.5V135.5M375.5 135.5V134.5V133.5V132.5H376.5H377.5H378.5V133.5V134.5V135.5"/>
</g>
<text x="322.1" y="92.4" class="m w">uro</text>
<text x="371.7" y="114" class="m w">lp</text>
<text x="416.5" y="128" class="m w">msc</text>
<rect x="296.3" y="131.6" width="36.2" height="2.1" fill="#fff"/>
<clipPath id="cph"><rect x="503" y="422" width="187.9" height="135"/></clipPath>
<rect x="503" y="422" width="187.9" height="135" fill="#000"/>
<g clip-path="url(#cph)">
<path class="pt" stroke="#bc3754" stroke-width="1.7" d="M527.6 432.9zm-1.6 1.5zm4.9-1.2zm-3.2 11.1zm8.8 2.6zm.2-.1zm-.9 21.6zm-6.3-.7zm5.3 .6zm-2.2-3zm2.8 4.4zm3.5-3.1zm1.3 6.8zm-1.2-1.2zm-9.3 6.1zm-2.6 1.6zm19.3-3.3zm3 1.1zm3.4 1.3zm.7-.8zm-2.1-1zm-3.4-2.1zm6.6 2.1zm13.5-2.7zm-2.8 1zm.1-2.7zm2.1 2.7zm-3 6.6zm-1.7 1.3zm.4-.7zm1.4-3.2zm-1.1-.4zm-3 9.4zm1.3-1zm2.9 .7zm6.8 2.6zm2.3-4.8zm-31.8-31.3zm-36.6 25.6zm78.8-31.3zm8.4-.8zm24.2 3.2zm-1.1 9.5zm3.3 1.6zm3.9-.2zm-.7 .5zm0-.3zm7.9 1.2zm-.3-1.5zm19.1-2.3zm4-.4zm32.7-33.2zm-59.4 71.1z"/>
<path class="pt" stroke="#d14744" stroke-width="1.7" d="M529.7 434.1zm0 2.1zm-2.3 6.2zm10.9 4.3zm-4.6-2.9zm1.2 22.7zm-1 1.5zm1-4.6zm6.1 8.7zm-14.2 6.7zm1.1-1.1zm3-.2zm17.3-4zm5.5 4.6zm-2.9-4.1zm1.8 5.8zm13-3.8zm-2.8 6.2zm3.3-14.6zm50.9-7.1zm-.6 .5zm15.4 .5zm1.2-1.3zm-2.7 1.2zm17.8-1.9zm.1-1.7zm6 3.5zm.2-.4z"/>
<path class="pt" stroke="#6f196d" stroke-width="1.7" d="M529 431.8zm2.7 2.4zm-2.9-2.9zm-1.5 12.2zm-4.4 .8zm5.9-2zm-2.9-.6zm10.1 22zm-4.3 4.6zm2-5.4zm-.8-.8zm2.3 10.5zm.8-4zm4.1-.2zm-8.4 11.3zm15.1-4.3zm1.2 0zm-.7 3.1zm-2.3-53.6zm1.5 1.5zm-2 1.1zm-1.7-1.8zm-.1 11.5zm2.4 7.9zm-2.2-.6zm1.8-1.3zm-.9 14.4zm-3.6-3.1zm1 3.6zm-36.9 23.2zm1.3-2.2zm58.3-11.9zm.8 .4zm13.4-2.8zm1.7-1.2zm-4.7-.3zm15.8-14.7zm6.1 1.2zm-5.7-1.9zm4.3 .6zm8.8 6.9zm1.2 1.7zm-2.1-.9zm.7-2zm6.8-19.9zm1.1-1zm-1.5 1.3zm.6-2.7zm0 3.7zm2.2-1.8zm-3.4 8zm-1.2-1.4zm2.8 3.5zm-.3 1.5zm-.6-2.1zm-.2 1.1zm2.7 .7zm-.5 3zm2.4 1zm-2.7 3.4zm4.4-1.3zm-2.1 .9zm.2-.5zm.8 2.3zm2.9-1.8zm-9 .6zm1.6-1.6zm6.2 10.4zm1.4 .6zm.5-.8zm-3.7 .9zm4.9-2.1zm1.7 .2zm-1.1 4.2zm-.2-.8zm3.2-2.3zm3.1 1.4zm5.2 1.1zm-2.5 .2zm2.9-2.3zm-2.7-2.7zm13.6 2.9zm-.7-1.4zm-4.1-.3zm-.1-.4zm10.5-4.2zm2.9 3.4zm2.9 1.8zm-.2-.8zm-2.7 1.6zm.2-.5zm15.7-30.7zm-.5 .1zm-.8 1.1zm17.8-8.3zm-21.6 46zm-.5 2.7zm-27.4 5.9zm2.8-.2zm2.4 3.3zm-20.6 .7zm33.2 10.6zm-.5-.4zm-1.5 1.6zm-9.2 5.6zm16.8 .9zm-.2-3.2zm.9-.8zm-1.2 2.7zm-9.8 3.5zm2.9 1.1zm19.2-10.6zm-.7 .6zm-42.1 4zm-2.7 2.6zm10.8 3.6zm-.9 23.1zm-108.2 6zm-3-.8zm.2-1zm-2.3 2.6zm8.6-3.2zm-.3-.9zm2 .9zm-18.9 .6zm-1.2 1.1zm0-.7zm43.7-1.2zm14.5 6.9zm-1-2.5zm33.2-1.8zm12.3 .4zm-2.2 .4zm.2-1.2zm7.5 15.7zm-.9-.1zm-.8 4.4zm2.5-4.4zm-3.6 1.8zm3.3-2.6zm-3.6 1.8zm-.7-2.9zm1.5-.7zm1.1 6.6zm1.7-3.9zm62.9-38.7z"/>
<path class="pt" stroke="#a22c60" stroke-width="1.7" d="M528 436.3zm-.1 .7zm.8-5.8zm3.1 1.4zm-6.4 2zm0 6.4zm1.9 5.2zm-1.2 .2zm7.3 .1zm2.6-5zm-1.5 6zm-2.3 16.9zm4.9 3zm-7.7-2.6zm5-1.4zm0-1.3zm-3.7 3.6zm6.8-1.4zm0 6zm3.8 1.9zm.4-1.7zm-2.4-2.1zm-3.7 1.4zm-5.5 6.2zm-1.5 3.3zm.8 .9zm1 .7zm-.7-2.1zm17.9-2.5zm4.6-3.2zm-4.9 4.3zm2.2-5zm1.8 6.8zm-2.6-5.6zm18.1 4.8zm-1.9-3.1zm-19.8-48.1zm1.4-2.6zm-3.4 19.6zm1.3 .6zm-39.3 36.5zm60-12.9zm14-4.9zm-3.6 3.4zm2.4 .7zm1.3-4.1zm4.5-13.5zm-.8-1.6zm9.3-.9zm5.2-.8zm-4.5 2.3zm2.7-3.3zm9.1 9.5zm6.8-7.9zm3.1 6.1zm-6.2-1.1zm-.1 1.4zm2.6-2.2zm8.1 7.7zm-2.2 2.5zm2.3-4.2zm-2.4 4.4zm8.3 1.9zm3-2.9zm2.7-2.5zm3.1 2.7zm6.2 3.3zm.5-2.4zm-.3 1.8zm-.7-2.7zm7.6-3.7zm.6-1.1zm.4 4.8zm2.1-2.7zm-3.1 .5zm6.8 3.4zm-2.3 .1zm-.5-1.1zm2.3 .6zm32.4-37.3zm-50.1 53.1zm-1.4 1.1zm-12.1 2.3zm31 12.5zm-.5-1.4zm-9.3 5.4zm-.7-.1zm17.5-.4zm-11.1 5.5zm23.1-9.6zm-148.2 39zm5.9-.4zm-1.9 .2zm-15.9-.3zm106.3 18.2zm.6-2.4zm-2.2 2.3z"/>
<path class="pt" stroke="#892269" stroke-width="1.7" d="M530.3 432.4zm-2.6 4.5zm-1.7-4.6zm1.9 12.4zm1.2-.4zm-1 .6zm-1.7-1.9zm1.8 2.2zm-1.6-2.2zm7.4-.9zm-1.9 1.2zm5.5 1zm.7-1.5zm-6.3 23.4zm5.3-.4zm-2.8 .7zm.8 4zm3 3.8zm3.2-6.4zm-3.6-1zm-2.5 4.1zm4.9-.8zm-14.1 8.7zm4.7-2.7zm-.7 4.2zm.2 .1zm22.6-.6zm-.6-6zm14.1-1.6zm-6 16.5zm8.1-1.2zm6.2 2.7zm-29.8-62.7zm-4.6 8.3zm.4-1zm2.5 1.4zm.4 9.2zm-1.5-.3zm1.2-1.2zm-.3 1.3zm.6 12.2zm-2.9-3.4zm4.4 .2zm.3 .1zm-.7 3.2zm-2.9-.1zm-.3-1.2zm25 9.6zm.3 1.2zm8.3-3.7zm1 1.3zm.9 3.5zm-.9 .1zm9.2-18.1zm8.8-6.3zm1.4 3.9zm-1.1-2.2zm17.6-12.4zm-2.6 5.6zm.4 .6zm2.5-.5zm-2.9 1.9zm2.7 5.3zm-1.5 .6zm.9 1.8zm3.5 4.2zm-1.1 .5zm3.2-2.4zm-3.2 2.5zm-4.2-2.1zm9.3 11.8zm1.1-3.6zm-1.2 .1zm3.1 4.3zm-.2-1.9zm-.8 1.1zm8.6-1.8zm-.2 .6zm1.9-.6zm1.5-2.3zm-2.7 5.1zm2-.3zm-2.8-1.7zm3.4-2.8zm7.9 5.8zm-2.5-2.9zm.8-1zm10.7-.8zm1.3 .1zm.3-3.2zm3.1 6.5zm-1.5-.4zm2.3-.8zm-.9 .2zm-1.5-.9zm.9 2.4zm31.6-38.8zm-1.5 .5zm-22.2 43.6zm-23.8 8.3zm-4 1.4zm.9 1.4zm0-2.3zm-.3-.1zm6.3 4.2zm-2.1 1zm.9 .7zm-1.7-1.7zm1.8 .2zm-.1 .2zm-18.1-.2zm.4 .1zm-1.2-.9zm33.2 11.7zm-2.8-2.1zm-.1 .9zm-7.5 3.9zm-1.4-.6zm.9 2.1zm18.4-1.4zm.3 .4zm-11.6 6.6zm22.8-11zm-1.8 .3zm1.8 .1zm-1.6 .8zm-45.6 5.4zm-100.2 34zm-2-.7zm-.3 2zm-3.2-.4zm6.2-1.9zm2.6 1zm1.2-1.9zm.4 .2zm.7 2.6zm-18.4-2.6zm-2.8 1.6zm1.4 .8zm2-1.5zm41.5-2zm13.7 6.5zm1 .8zm-.5 .1zm44.6-4.9zm2.2 18.6zm.1-1.9zm1.8-2.3zm.1 3.7zm-.9-.2zm2.2-3.4zm63.5-36.9zm-.1-.9z"/>
<path class="pt" stroke="#e25b32" stroke-width="1.7" d="M529.1 436zm-.2-3.2zm-4 9.5zm2.2 .1zm7 1zm-.4-.5zm-3.1 24.1zm1.8-.6zm6.1 3.4zm-10.4 9.8zm22.1-2.9zm-2.5 0zm5-1.4zm13.1 3.1zm.2-3.7zm2.1 .1zm-4 3.6zm1 4zm-4.6 5.2zm2.4 1.8zm-2.2-2.5zm1.7-1.5zm7 .5zm1.7 3.3zm1.3 2.1zm-4.3-3.7z"/>
<path class="pt" stroke="#56106b" stroke-width="1.7" d="M529.1 437.1zm-3.1 9.6zm-2.8-3.5zm11.1 27.7zm2.2 2.3zm7.8-48.1zm-1.7 .5zm3.4 1.1zm-2.5-.3zm3 0zm0-3zm-6.1 12.4zm1.8 1zm.2 9.4zm-.5-1.3zm-.4 10.8zm-.3-3.8zm-1.2 4.5zm3.1 1.2zm-1.4-3.9zm-37.5 26.5zm2.2 1.8zm57.8-14.5zm15.5-1.3zm5.8-16.8zm-.3-2.1zm12.1 1.3zm-3.2 2.1zm-3-1.8zm4 1.2zm.6-4.5zm2 2zm-5.7 1zm1.1-4.7zm.2 6zm2.5-1.2zm8.3 7.7zm2.9-1.3zm4.2-21.4zm1.4 2.3zm-.7-1.5zm.3-.2zm-2.2 1.4zm1.1-5.3zm-3.3 7.7zm3.7 1.6zm2.1 4.1zm.4 1.6zm-3 1.1zm-2.3-.9zm3.6 2.3zm2.2 2.1zm2.8 1.5zm-.5 1.7zm0-.2zm-2-1.2zm-3.9 2.1zm.3-3.2zm-2.5 2.2zm.1-.5zm7.6 9.2zm2 1.2zm6.1 2.2zm8.6-4.7zm-1.4-2.1zm7.5 2.3zm4.1 3.1zm-1.3-.7zm-1.8 2.3zm1.6-4.6zm-1.6-.4zm1.6 1.9zm5.7-.2zm-1.5-2zm3.9-2.5zm6.3 5.4zm12.2-32.3zm17.7-2.3zm0 0zm-24.5 43.1zm.1 0zm-.6-2zm-1.3-.5zm-26.6 9zm1.7 1.9zm.4 1.3zm-.5-.9zm3.1 3.9zm1.1 0zm1.2-3.5zm2.2 .9zm-4.3-.6zm-.5-.6zm4.8 1.8zm-22.2 1.3zm30.9 10.3zm1.2 1.1zm1.6-.7zm-2.6-2.6zm.8 .3zm-1.6 .3zm3.6 1.8zm-11.4 4.1zm1.9 .3zm-4.6-1.3zm19.1-.4zm-.7 1.4zm-.2 2.2zm.3-1.8zm.5-2.2zm-1.6 1.9zm4.1 2.4zm-.7-1.8zm-.2-1.5zm-10.1 3.6zm-1.6-.3zm24.2-6.4zm-48.4 3.8zm8.1 2zm3.8 17.3zm-1.5 8.6zm-.5 1.6zm-109.3 6.5zm-2.1 .7zm6.4-5.6zm2.5 5.7zm-1.9-.6zm-2.8-1.7zm3.3 2.8zm-2.9-1.9zm-1.3-2.9zm-13.4 .5zm.8 .7zm41.9-.4zm-.8-2zm-.1 2.8zm14.2 2.3zm-1.1 3.9zm-.5-2.2zm3.7-1zm17.3 8.2zm-.7 1.2zm14.6-10.7zm11.8-.6zm3.2 15.9zm5-1.1zm-2.9-2.5zm-1.6-1.2zm45.1-33.8zm18.3 1.2zm1.9-3.8z"/>
<path class="pt" stroke="#f0731d" stroke-width="1.7" d="M525 444.3zm11 .4zm-.3-2.1zm-.7 3.6zm-.1 19.9zm-2.4-2.2zm-.6 0zm7.8 6.7zm24.2 6.5zm3.3-.8zm-.7 4.3zm-3.4 8.9z"/>
<path class="pt" stroke="#f8ca37" stroke-width="1.7" d="M535.7 444.6zm14.6 33.4zm12.4 3zm3.6-.2zm7 8.5z"/>
<path class="pt" stroke="#fbab12" stroke-width="1.7" d="M537.6 443.8zm-2.3 1.1zm16 30.6zm0 .5zm16 .8zm-2.7-1.1zm-1.3 11.7zm-2.7 .7zm10.4-.4zm2.3-.9z"/>
<path class="pt" stroke="#f8e669" stroke-width="1.7" d="M534.2 444.7zm.2 .7zm32.1 30.3zm-1.9 7zm8.6 6.8zm-2-4.2z"/>
<path class="pt" stroke="#f88e12" stroke-width="1.7" d="M539.5 471.3zm11.6 6.1zm15.6-2.3zm-.7-2.3zm-1.6 10.7zm-.8-3.3zm5.8 7.4zm3.9 1.9z"/>
<path class="pt" stroke="#fcffa4" stroke-width="1.7" d="M565.1 475zm-.7 7.4zm-.5-2.5zm-.7 2zm.9 .1zm8 4.5zm-1.3 1.6zm2.1 .1z"/>
<path class="pt" stroke="#3c0a62" stroke-width="1.7" d="M543.3 446.1zm2.1 6.3zm-5.5 3.6zm.6 1.1zm4.2-4.4zm-38.5 25.7zm.1 4.1zm57.4-14.5zm15.3-.5zm4.3-16.6zm13.6-1.4zm9.4 3.4zm-2.6 3.3zm.5 0zm7.1-24.6zm-2.2 3.8zm4.2-2zm-5.6 7.7zm4.9-1.6zm-2.7 2.6zm-2.1-1.9zm2.2 1.5zm.7-1.3zm.2 .7zm2.5 10.4zm-3.4-.9zm2.5 2.7zm-2-2.6zm1.2 3.1zm22.6 6.4zm5.2-.3zm-.7 5.4zm11.2-3.6zm-2-5.1zm2.5 3zm18.6-27.4zm-3.6 .1zm1.5 .7zm-.9-2.8zm20.8-6.7zm-3.7 2.3zm3.9 2.2zm-25.9 42.5zm3.9 .1zm-1.8-.5zm-26.4 9.2zm-1.9 2zm2.1-.7zm0-4.7zm2.3 3.5zm-1.7 3.2zm-15.6-1.9zm31.1 9.2zm-11.2 4.7zm-2.4 3.2zm5.6-1.4zm-1.4 2.2zm16.5 2.9zm-2-1.2zm11.9-5.4zm2.2-2.9zm-37.2 12.3zm-.1 .1zm0 11.2zm.5 .3zm.2 10.1zm-112 10.8zm-4-1.5zm9.7 .5zm-4.2-3.3zm2-3.6zm-12.9 5.2zm38.8-5.8zm13.5 8.9zm22.8 7.7zm-.2-.3zm13.4-12.9zm12 .7zm3.1 20.1zm4.1-2.6zm-6.4-3.5zm-2.3 1.3zm-22-14.4zm1.9 21.2zm.2-.2zm87.8-43.8z"/>
<path class="pt" stroke="#210b45" stroke-width="1.7" d="M506.4 482.2zm57.3-14.6zm18.4-16.7zm61.8 11.5zm-1.7-2.2zm-9.6 16.7zm2.5 48zm-107 10.9zm0 .2zm-13.6-2.4zm37.2-3.9zm4-.6zm64.9 22.5zm2.1-3.4zm-31.4-14.5zm.6 20.5z"/>
<path class="pt" stroke="#6f196d" stroke-width="1.3" d="M532 434.6zm-2 .6zm-4.3-.8zm2.7 8.2zm-5.2-.1zm.5 2.6zm11.2-3.3zm-2.7 2.9zm1.9 23.3zm-4.8-1.7zm.6-1.3zm1.4 4.3zm-1.9-5.5zm7 5.9zm6.3-.3zm-4.2-2.2zm-6.6 11.5zm-1.6 2.6zm-2.5-5.7zm1.4 2.3zm2.3 2.4zm-3-2.9zm19.1-.6zm19.9-4zm-4.3 16.9zm9.8-4.7zm-4.6 4.4zm-24.9-64.5zm-.7 2.5zm1.8-1.1zm1.9-1.8zm-1 .6zm-.4-.2zm-1.9 10.2zm-.7-.4zm-2.5 0zm2.8 2zm1.4 16.8zm-.8 1.1zm-2 1.6zm1.6 2.5zm2.4-6.3zm-.4 4.4zm-3.7 1.6zm3.6-1.2zm.8-2zm-38.8 25.9zm-1.3 1.3zm.3-.5zm58.9-13.4zm-.5-2.5zm13.6 1.5zm-.9-4.1zm1.9-.4zm-4.7 2.6zm4.9-2.3zm4.7-16.4zm-.9 1.9zm2.9-.3zm-3.1 1.6zm2.1 .9zm12-.7zm.2-.9zm1-2.3zm-3.5 3.4zm9.7 4.2zm1.3 .4zm7.7-24.3zm-2.5 2.4zm1.5 .3zm-3.3 6.1zm4-1zm-3.2-1.4zm1.5 8zm2.2-1.2zm-3.1 2.8zm-.9 .7zm2.4-2.5zm5.1 4.4zm.7 .7zm-1.8 4.3zm.6-4.1zm-7.2 1.1zm.9 3.6zm-1.9-.6zm9.7 4zm-.8 .2zm-.4 2.2zm5 0zm7.9 .8zm0 2.7zm2.9-2.1zm-3.5-2.9zm2.6 2.7zm10.9-1.8zm-3.8 2.9zm-1.4-2.5zm11.3-3.1zm2.4 1.5zm-1.6-2.5zm4 1.7zm-1.4 4.8zm-1.8 0zm18.8-32.9zm-2.1 2.8zm1.2-.3zm0-.5zm16.8-4.4zm2.4-.9zm-2.3-3.7zm-20.9 47.3zm-2.5-2.4zm.9 4.2zm-1.4-.2zm1.4-1.2zm-24.4 5.6zm-1.1 3.6zm-3.3-.5zm3.1-.4zm2.5 4.5zm1.8 .1zm-1.4-1.7zm-17.4-.7zm-.4-1.3zm28.9 10.8zm.3 2.1zm-10.1 4.2zm-.9-1.6zm19.8 5.3zm-1.4-1.1zm-.1-2.2zm2.8 3.2zm-11.6 .5zm-.3 2zm-.3 .2zm1.3-2.5zm22.8-9.4zm-3.4 .9zm3.2 0zm-47.9 5.3zm1.3 2.2zm-.8-.3zm6.4-.3zm-109.1 35.7zm-2.4-1.8zm2.1-.8zm2.2 3.2zm-.8-4.1zm6.2-2.1zm1.3 3zm.2 .8zm-5.3-1.7zm2.5 4.6zm-18.8-3.7zm2.7 2.5zm41.4-4.1zm1.2-1.6zm12.1 6.9zm1.6-1.5zm33.4-2.5zm12 1zm6.7 16.2zm-4.4-4.7zm5.4 3.6zm-4.7 2zm2.3-.8zm1.6-1.3zm-7.5 1.1zm48.9-39.7zm19.4 1.5zm.8-.3zm-.4-3.3zm-.9 1.4z"/>
<path class="pt" stroke="#d14744" stroke-width="1.3" d="M527.6 432.9zm6 13.1zm2-4.1zm-2.2 21.1zm-1.4 2.7zm1.5 .8zm-1.6 .4zm7.1 1.8zm-8.5 10.6zm-3.6-1.3zm25.2-2.8zm-4.6 3.3zm2.4 .6zm-1.6-4.3zm17.6-.1zm.9 2.9zm-1.9 1.1zm-1.8 6.8zm-1.2 .6zm.6 2.6zm8.5 1.4zm-29.1-34.7zm1.5-.5zm32.9 10.3zm42.1-5.1zm-.6 2zm2.2-2zm3.8 1.7zm-.7 .3zm9.3 0zm20.3-.4z"/>
<path class="pt" stroke="#892269" stroke-width="1.3" d="M528.9 434.2zm-.1-2.1zm-2.6 12.6zm-1.4-.9zm2.8-1.9zm5.1 4.2zm.8-2.2zm5.3 2.2zm-6.9 22.7zm5.4-4.5zm-2.2 1.6zm.1 6.6zm-.5-1.9zm.2-1.6zm7.1 2.1zm-1.8 1.6zm.4-2.4zm-13.2 10.7zm21-2.4zm6.5-1.6zm-1.9-3.1zm.3 2.2zm-2.3-2.5zm-1.8 2.6zm-.9 1.6zm14.6-2.9zm4.9 14.5zm6.6-1.3zm-6.4 .5zm4.1-4.1zm-29.4-58.7zm4.5 1.2zm-3.5 9zm.5 7.6zm-1 1.5zm-3.1 8.6zm.6-.5zm-35.1 27.7zm60.3-14.2zm12.6 .4zm1.8-1zm-.7-1.1zm3.1-14.4zm9.4-2.6zm12.4 5.7zm4.6-14.3zm3.7 6.5zm-1-1.7zm1.1 .9zm-3.8 7.1zm8 10.9zm-.4-3.3zm.7 0zm2.4 2.8zm-1.3-3.3zm6.7 4zm-.9 .9zm-.3 .1zm7.4-3.4zm1.7 2.8zm-1.6-5.3zm-2.8 4.7zm11.8 1.6zm9-3.2zm1.4-2.9zm1.9 1.3zm3.4 2.9zm28.9-35.3zm1.3-1.2zm-2.7 .3zm-.4-1.5zm.8 1.9zm2 .5zm2.3-.3zm-55 50.4zm4 1.4zm.5 1.7zm4-.3zm-1.1 1zm10.6 9.9zm.6 2.7zm9.3 3zm-2.2 2.7zm11.7-6.7zm1.4 .3zm-47.4 4.2zm1.2 2.4zm-.4-.1zm10.4 5.2zm-113.3 28.9zm.9 2.6zm-1 .4zm7.5-6.8zm-1.8 4.7zm-.3-4.3zm-15.4 .5zm.6 2zm41.9-3.8zm13.9 6.7zm.4-1.6zm51.1 14.6zm-3.7-2.6zm1.8 1.7zm62.6-38.9zm.2 1.4z"/>
<path class="pt" stroke="#a22c60" stroke-width="1.3" d="M528.4 435.7zm-.8-2.4zm-.7 9.9zm-3.1-.3zm10.1 .2zm4.5 .8zm-2.7 2.1zm1.2 21zm-4.1 2.3zm-.9-4.9zm-1.3 3.2zm-.3 .4zm5.6-2.6zm3.6 8.1zm.2-2zm-6.2-.8zm6.4-3.9zm1.8 3.9zm-10.2 8.6zm-4.4-2.8zm24.1 .7zm2.5-4.4zm-3.9 7zm13.9-4.7zm1.4-.7zm.5 7.7zm1.7-.3zm3.1 9.4zm4.3-2.2zm-4.4-3.6zm-25.6-59.5zm1.7-.7zm-1.3-.3zm-2.4 10.4zm-1.9 1.4zm1.3 19.8zm.5-2.5zm2.5 2.1zm34.3 10.5zm-1.9-1.9zm19-15.9zm-3.2-3.7zm12.7 10.6zm5.3-22.3zm0 7.3zm-.6-.4zm-1.1-.2zm1.3 5.4zm.7-.5zm4.7 6zm2.7 7.4zm-3.7 2.3zm7.6 1.2zm0 .3zm1.8-.3zm3.8-1.4zm12.2 1.3zm10-3.2zm3.6 3.8zm-.1-3.5zm-2.5 3.8zm34.8-36.3zm-52 51zm6.4 4.5zm-.4 1zm-18.5-1.2zm21.3 15.9zm15.5-.3zm2.3 .5zm-34.3 .2zm-106.2 37.4zm3.1 .4zm.3-3.9zm6.4 2zm-2.5-3.7zm-.2 .2zm-15.1 1.8zm-.6 .2zm41.8-2.4zm16.2 5.4zm49.4 11.7zm-.5-.7zm-1.9 .6zm1.6-.3zm64.5-37.4z"/>
<path class="pt" stroke="#bc3754" stroke-width="1.3" d="M529.9 436.6zm-3.5 4.8zm-2.1 .2zm10.6 6.2zm2 .1zm-5.1 16.4zm.2 .4zm2.4 3.4zm5.9 .5zm-4.4 3.4zm0-1.8zm1.9 2.9zm-10.6 4.4zm21.8 .4zm-1.8-1.8zm-.7-.2zm19.7 1.4zm-.9-1zm-3.1 5.7zm9.4 3.8zm.9 1zm-2.9-.5zm.6 4.6zm.2 .2zm-25.1-66.3zm-3.7 10.8zm35.2 29.5zm-.7 .5zm.8-2.3zm17.3-14.1zm-.2-1.2zm.7-1.7zm-.9 1.1zm1-1.3zm20.6 6.2zm0-1.7zm3.2 9.5zm-.9 .4zm13.4 1.3zm18-2.8zm.3 1.6zm1.5-2.1zm-1.3-.3zm2.4 34.5zm-26.7 6zm-102.2 35.3zm6.2-.6zm-.5-1.1zm90.1 16zm64.6-38.5z"/>
<path class="pt" stroke="#e25b32" stroke-width="1.3" d="M528.7 435.4zm1.3-.1zm-4.7 7.9zm9.3 .8zm2 3.6zm1.8-3.4zm.7 28.2zm-2.3-3.4zm2.2 3.2zm-1.8-2.5zm14.5 5.5zm-.5-2zm-2.5 1.4zm4.4 .4zm11.3 .9zm4.6-.2zm-7.4 13.9zm.5-1.6zm9.8 0zm-1.2 1.7zm1.6 .3zm2.3-2.4zm1.8-22.2zm54-2.8z"/>
<path class="pt" stroke="#3c0a62" stroke-width="1.3" d="M532.2 434.3zm-3.6 7.4zm15.8-18zm-1 1.2zm1 3.4zm-.3-1.3zm3.6-2.3zm-5.9 9.6zm-1.1 18.5zm3.6 4.8zm1.2-5.2zm-4.2-.2zm-34.6 27.2zm75.6-30.6zm1.5 2.7zm1.9-1.3zm-3.3-1.5zm3.2 2.6zm11.8-4.4zm15.8-15.5zm-1.7 4.8zm3.8-2.1zm-2.1-1.6zm-5.2 5.9zm.8 3zm1.4-4.9zm-.7 11.8zm.4-4.9zm7.6 10.9zm-1.2 .4zm-4.2-3.2zm6.5 1.2zm-8.8 2.7zm1.7-4.7zm9.9 13.1zm22.4-.1zm-4.9 1.7zm1.8 .3zm9.1-9.7zm-1.4 5.7zm-2.4-4zm4.7 4.2zm18.8-29.5zm-1.7-1.9zm2 2.7zm-2.5 .8zm17.9-5.4zm-1.8-3.7zm-20 44zm1.3 1.5zm-.4 .6zm-27 9.1zm.5-4.2zm1.9 7.1zm.6-4.4zm.6 4.5zm-.9-4.3zm-.7 .9zm-15.7 2.2zm-2 1.7zm-1.7-.6zm19.7 13.7zm4.5 1.4zm1.1-.6zm-4.1 1.1zm.6 .1zm16-.6zm3.9-1.2zm-3.8 1.9zm3.7 1.3zm-1.7-3.8zm-11.1 5.1zm.4-1.2zm22.7-8.7zm.2 2.4zm1.8-.1zm-49.4 2.8zm6.7 2.6zm.7 1.4zm-.1-1.8zm4.7 18.4zm-.3-.8zm.5-.9zm-.6 11.2zm-115.7 7.7zm-.4 1.4zm5-3.8zm-5 2.3zm.9-1.1zm1.5-2zm0-.6zm4.9-1.3zm.5 5.9zm3.5-3.4zm-17.1 .8zm-.6-.4zm-1.8 2.2zm56.1 2.1zm20.7 8.4zm13.9-11.5zm11.6 .5zm-.9 .6zm8.1 12.8zm-3-3zm-27.5-10.9zm1 20.5zm70.4-43.7zm-.1-1zm19.1-1.5z"/>
<path class="pt" stroke="#f0731d" stroke-width="1.3" d="M529.8 433.6zm-3.6 8.6zm10.1 .3zm-1.1 24.8zm4.1 2.7zm-.7 .4zm1.2 .3zm12.5 5.3zm-1.3-.8zm12.6 0zm-1.6 5.1zm4.4 1zm3.9 7.5z"/>
<path class="pt" stroke="#56106b" stroke-width="1.3" d="M527.6 431.6zm8.2 31.7zm-1 5.9zm7.2-.6zm-14.4 7.3zm-1.5 .7zm5.8 1.7zm-4.7 1.9zm4.4-.1zm15.2-54.8zm-1.6 3.3zm.7-4.3zm-1.6 21.5zm-2.7 9.1zm3.2 1.5zm-1.8-4.5zm-.7 5.9zm.9-.2zm-38.9 22.9zm61.5-11.6zm-1.2 0zm3-1.3zm9.8-4.2zm-.4-.6zm1 5.5zm-3.2-2.7zm-.3-.3zm10.2-14zm2.1-3.1zm-1.6-1.4zm6.5 .7zm-.5 .1zm3.5-3zm2 .5zm-1 1zm-.9 1.9zm-1.1-1.9zm-2.2-.3zm3.1-2zm9.6 11zm2 2.4zm-1-4.3zm-2.2 2.2zm10.4-19.7zm-1.2-2.1zm2.1-1.2zm-1.3 3.1zm-1.2-1.1zm-2.5-2.9zm4 4.6zm-2.8-5.3zm2.5 10.4zm-2.4-.4zm-.2-.7zm1 9.5zm-1.9-4zm3.7 3.2zm-1.3-4.2zm1 .1zm1.2 2.4zm1.2 4.8zm-2.8-.5zm3.5 2.1zm-5.7 1.5zm1.8-.8zm11.6 7.1zm8.7 3.1zm-1 .6zm9.9-.8zm0-.9zm.5-2.2zm6.1 .7zm3.7-3.8zm3.7 5.3zm.4-.5zm-3.2 .7zm3.3-4.1zm13.5-27.3zm14.3-6.5zm3.6-.2zm-.5 2.5zm-.2-3.1zm-.3 3.5zm-.1-4.9zm-2 1.4zm3.4 2.3zm-2.8 1.8zm.8-5.4zm-25.3 45.4zm2.9 2.4zm-2.7 .7zm1.8-.7zm-28.9 9.7zm3.9-1.3zm-2.6-3.4zm.5 3.7zm.5-.8zm-2-2.9zm2.2 5.9zm.8-1.3zm-.6-1.3zm.4-.7zm1.1-2.5zm2.2 8.8zm-1.9-1.3zm4.3-1.1zm-1.9-3.3zm-19.3 4.1zm.6-3.3zm32.1 11.8zm-1.2-2zm-11.7 5.5zm1.1-.6zm19.5 5.2zm-13.2 3.5zm3.9 0zm-.4-1.6zm-26.5-2.2zm6.9-1.5zm-.2 .7zm.3 1.7zm3.9 3.2zm-.5 .1zm-112.9 27.3zm-1 .1zm2.9 5.1zm-.3-3.5zm-1.8 4.3zm3-4zm3.9 1.5zm2.4-1.9zm-5.3-2.1zm-.7 1.5zm2.6 3.4zm.6-5.2zm.4 4.6zm-16.9 .3zm42.4-3.8zm.2 0zm13.7 3.8zm.2-1.2zm19.9 8.7zm-.9 2.3zm15.9-12.8zm7.6 1.5zm.2-1.4zm6.8 19.9zm2.4-6.7zm.8 2.1zm-3.6 4.6zm.5-7.1zm-1.1 6.9zm2.7-4zm-.8-2.5zm-4.6 .9zm-23.2-13.2zm91.7-22.4zm.8-2.5zm-.8 2.3z"/>
<path class="pt" stroke="#fbab12" stroke-width="1.3" d="M537.2 444.1zm.2 .2zm25.9 34.5zm10.9 9.3zm-2.3 2.9z"/>
<path class="pt" stroke="#f88e12" stroke-width="1.3" d="M533.1 465.4zm14.6 9.8zm4.1-1.9zm.1 5.6zm-1.9-1.3zm16.8-1.5zm.6-2zm-5.2 6.6zm4.5 1.7zm-2.3-2zm9.1 8.2zm-4.1-2.8z"/>
<path class="pt" stroke="#f8ca37" stroke-width="1.3" d="M550.7 474.3zm22.4 14.4zm-4 1.8z"/>
<path class="pt" stroke="#fcffa4" stroke-width="1.3" d="M567.2 474.7z"/>
<path class="pt" stroke="#f8e669" stroke-width="1.3" d="M561.7 488.3zm7.1-.5z"/>
<path class="pt" stroke="#210b45" stroke-width="1.3" d="M586.4 447.6zm28.1-14.6zm-2.2 18.6zm53.9-18.2zm-2.9 38.9zm-29.1 9.4zm25 19.4zm-137.3 35.8zm-9.1-6.7zm40.1-1.5zm34.7 16.6zm34.6 3.5zm-7.8 1.1z"/>
<path class="ct" stroke-width="1.45" stroke="#fff" d="M538.312 421.438V422.812V424.188V425.562V426.938H539.688V428.312H538.312V429.688V431.062V432.438V433.812V435.188H536.938V436.562V437.938V439.312V440.688V442.062V443.438V444.812V446.188V447.562V448.938V450.312V451.688H538.312V453.062V454.438V455.812H539.688V457.188V458.562V459.938H541.062V461.312H542.438V462.688H543.812V464.062V465.438H545.188V466.812H546.562H547.938H549.312H550.688H552.062H553.438H554.812H556.188V468.188H557.562V469.562H558.938H560.312H561.688H563.062H564.438H565.812H567.188H568.562H569.938H571.312H572.688H574.062V470.938H575.438V472.312H576.812H578.188H579.562H580.938H582.312V473.688H583.688H585.062H586.438H587.812V475.062H589.188V476.438H590.562V477.812V479.188H591.938H593.312V480.562H594.688V481.938H596.062V483.312V484.688H597.438V486.062V487.438H598.812V488.812V490.188H600.188V491.562V492.938V494.312V495.688V497.062H601.562V498.438V499.812H600.188V501.188V502.562V503.938H598.812V505.312H597.438V506.688H596.062V508.062H594.688V509.438H593.312H591.938H590.562V510.812H589.188H587.812H586.438H585.062H583.688H582.312V512.188H580.938H579.562H578.188H576.812H575.438V510.812H574.062H572.688V509.438H571.312H569.938H568.562V508.062H567.188H565.812V506.688H564.438H563.062V505.312H561.688H560.312H558.938V503.938H557.562H556.188H554.812V502.562H553.438H552.062H550.688H549.312H547.938H546.562H545.188H543.812V503.938H542.438H541.062H539.688H538.312V505.312H536.938H535.562H534.188V506.688H532.812H531.438H530.062H528.688H527.312H525.938H524.562H523.188H521.812H520.438V505.312H519.062H517.688H516.312H514.938V503.938H513.562H512.188V502.562H510.812V501.188H509.438V499.812H508.062V498.438V497.062H506.688V495.688V494.312V492.938V491.562V490.188V488.812V487.438V486.062H508.062V484.688V483.312H509.438V481.938H510.812H512.188V480.562H513.562V479.188H514.938V477.812H516.312V476.438V475.062H517.688V473.688V472.312V470.938V469.562V468.188V466.812V465.438H516.312V464.062V462.688V461.312H514.938V459.938V458.562H513.562V457.188V455.812H512.188V454.438H510.812V453.062H509.438V451.688H508.062H506.688V450.312H505.312H503.938H502.562M690.938 480.562H689.562V481.938H688.188V483.312V484.688V486.062V487.438V488.812V490.188V491.562V492.938V494.312V495.688V497.062H686.812H685.438H684.062H682.688H681.312V498.438H679.938H678.562V499.812H677.188H675.812V501.188V502.562H674.438V503.938V505.312V506.688V508.062H673.062V509.438V510.812V512.188V513.562H671.688H670.312H668.938V514.938H667.562H666.188V516.312H664.812V517.688H663.438V519.062H662.062H660.688H659.312H657.938V520.438H656.562H655.188V521.812H653.812V523.188V524.562H652.438V525.938H651.062H649.688V527.312H648.312V528.688V530.062V531.438H646.938V532.812V534.188V535.562H645.562H644.188V536.938H642.812V538.312V539.688V541.062H644.188H645.562V542.438H646.938H648.312H649.688V541.062H651.062V539.688V541.062V542.438H652.438V543.812V545.188V546.562H651.062V547.938V549.312H649.688H648.312H646.938H645.562H644.188H642.812V550.688H641.438H640.062H638.688V552.062H637.312V553.438V554.812H635.938V556.188V557.562M615.312 557.562V556.188V554.812V553.438H616.688H618.062H619.438V554.812V556.188V557.562"/>
</g>
<text x="541.4" y="495" class="m w">uro</text>
<text x="609.8" y="524" class="m w">lp</text>
<text x="672.8" y="540" class="m w">msc</text>
<rect x="505.6" y="551.2" width="50.4" height="3.2" fill="#fff"/>
<clipPath id="cpi"><rect x="503" y="628.5" width="187.9" height="135"/></clipPath>
<rect x="503" y="628.5" width="187.9" height="135" fill="#000"/>
<g clip-path="url(#cpi)">
<path class="pt" stroke="#3c0a62" stroke-width="1.7" d="M527.6 639.4zm-1.6 1.5zm2 2zm-.1 .6zm2.4-4.5zm-1.6-1.3zm3.1 1.5zm-6.4 2zm5.5-1.4zm-5.5 7.8zm-.5 1.2zm2.4 4zm.4-2zm-.3-1.8zm10.9 4.2zm-2.3-2zm-1.9-1.3zm-.4-.4zm2-.4zm-2 1.2zm1.3 2.5zm.8 22.1zm-3.8-2.1zm5.3-.5zm-7.8 2zm2.7-3.4zm4.9 3.1zm-2.3 .9zm-.3-1.8zm-5.1-1.7zm5-1.5zm0-1.3zm-3.7 3.7zm1.9-.5zm4.9-.9zm-2.2 6.1zm.1-.8zm2.9 4.6zm-.8-3.9zm3.8 1.8zm.4-1.6zm-3.8-3.7zm1.4 1.6zm-.4-1.8zm1.3 6.8zm.1-3.2zm-4.7-.5zm5.4 2.4zm-2 0zm-10.4 7.1zm.8 .9zm.3-1.9zm-2.9 .6zm3.6 2.1zm-2.5-3.3zm-.8 2.2zm2.6-1.1zm1.2-1.2zm17.3-4.1zm5.5 4.6zm-7.3-1.5zm3 1.1zm3.4 1.4zm-2-5.1zm-3.1 2.7zm4.5-3.6zm1.3 5.1zm-2.1-1zm1.3-1.8zm-4.7-.3zm4.6 4.7zm2-2.5zm-5.9-3.7zm17.1 4.8zm-.5-2.8zm.3 .4zm-.2-3.2zm-1.5 4.3zm3.6-1.5zm-1.5-.8zm1.2 1.6zm.9-1.6zm-4 3.7zm.3 5zm-.8-3.3zm2.9 .5zm-3.7 1.5zm2.3 .2zm-4.6 5.2zm2.4 1.8zm-2.2-2.5zm1.7-1.5zm.7 4.2zm-2.5-1.4zm8.8-.5zm0-1.7zm1.7 3.2zm2.2 .3zm-.9 1.8zm-4.3-3.6zm-23.8-62.6zm-1.7 .5zm3.4 1.2zm.5-.3zm-3 0zm3 0zm0-3.1zm-6.1 12.4zm2.3 1.5zm-.5-.4zm.2 9.4zm2.7-1.1zm-3.2-.3zm1.9 12.8zm-2.3-1.9zm-.3-3.8zm-1.2 4.5zm.2-1.9zm2.9 3zm-1.4-3.8zm-37.4 27.6zm1.3-2.3zm58.3-11.9zm.8 .4zm-.5-.1zm11-4.1zm2.9 1.4zm1.7-1.1zm-.1 2.5zm-3.5 2.1zm-1.1-5zm10.4-13.8zm-.3-2.2zm11.7 2.2zm-2.8 1.2zm10 5.7zm2.9-1.3zm-2.8 1.1zm7.1-24.5zm1.3 4.3zm-.7-1.5zm.3-.2zm-3.1 1.1zm.9 .4zm3.3-2.3zm-2.2-3.1zm-3.4 10.7zm4.9-1.6zm-1.1 .2zm-3.7 .6zm2.9 .2zm.2 .7zm7.5 21.6zm3.8-2.5zm-1.1 4.2zm3.4 .6zm-3.6-1.4zm12.2-3.4zm-5.9 2.6zm5.2 1.1zm-2.5 .2zm2.9-2.4zm-1.1-3.5zm7.5 2.3zm4.1 3.1zm-1.3-.7zm-1.8 2.2zm1.6-4.6zm-1.6-.3zm1.6 1.8zm-2.3-2.2zm10.5 1.9zm-2.5 .1zm-1.5-2zm2-3.2zm8.2 6.1zm12.9-30.6zm-.7-1.6zm-2.9 1.7zm.6-2zm20-2zm0 0zm-24.9 42.3zm3.9 0zm-4-1.2zm-1.3-.6zm-27.2 8.1zm4.5 3.7zm0-4.7zm.6 6.7zm-17.5 .8zm30.9 10.2zm2.1-3.6zm-1.1 1.7zm-10.1 2.9zm-2.4 3.2zm5.6-1.4zm-1.4 2.3zm-3.8-1.8zm32.4-4.9zm.7 2.1zm-48.4 3.8zm10.5 6.4zm-.1 .1zm.5 11.6zm.2 10zm-107.7 9.8zm0 .3zm-15-5.2zm.8 .6zm37.8-1.7zm4-.7zm13.4 5.1zm-1.1 3.9zm-.5-2.2zm3.7-1zm18.3 10zm-.2-.2zm25.4-12.3zm5.9 19.3zm2.1-3.4zm-31.4-14.5zm-.1-.5zm90.1-21.8zm1.9-3.7z"/>
<path class="pt" stroke="#56106b" stroke-width="1.7" d="M529.7 640.6zm0 2.1zm-.6-.1zm-.2-3.3zm-3.9 11.5zm2.1-1.8zm8.6 2.1zm1.9-.7zm-3.4 .9zm1.1 .2zm-.9 .4zm.5 21.1zm0-.3zm-1 1.8zm-1.4-4.1zm-.6 0zm3-.4zm-4.3 3.6zm1.8-.6zm7.3 4.1zm-1.2-.7zm-10.4 9.8zm22.1-2.9zm1.1-1.2zm-.2 1.8zm.2-1.3zm15.4-1zm.6 1.7zm-2.7-1zm1.9 0zm-.5-3zm-1.4 10zm-.2-.3zm-1.7-1.5zm1.2-1.1zm-.7 2zm3.1-1zm-3 6.6zm9.9 2zm-2.2-1.7zm2.3 1.5zm0-2.5zm-2.1-1.4zm1.7 2.9zm-27.9-63.4zm-.5 2.7zm-1.7-1.8zm-2.4 10.2zm.4-1.1zm2.5 1.5zm-.4 8.1zm1.8-1.3zm-1 14.3zm-2.9-3.3zm4.4 .1zm.3 .1zm-.7 3.2zm-2.9-.1zm-.7 .6zm.4-1.7zm-36.2 24zm-.3 .9zm61.5-15.4zm.3 1.3zm9.3-2.5zm2.9-1.1zm-2 4.7zm-1.6-1.4zm2.4 .7zm1.3-4zm6.2-13.3zm5.5-1.7zm6.4 0zm-6.2 .4zm4 1.1zm.6-4.4zm2 2zm-5.7 .9zm1.1-4.7zm.2 6zm2.5-1.1zm9.8 8.4zm-2.1-.9zm7.5-22zm.2-.5zm-.6 .9zm.6 1zm-1.2 6.2zm-2.2-3.8zm1 2.4zm1.2 10.1zm1.7 3.3zm4.7 7.8zm1-.2zm1.4 .6zm1.7-1.9zm1.6 3.6zm-.2-1.9zm-.8 1.2zm3-1.7zm3.9-.4zm1.7 .3zm-.2 .6zm1.9-.6zm1.5-2.3zm-2.7 5zm2-.2zm-2.1-4.7zm-.7 2.9zm3.4-2.8zm10.9 2.8zm-.7-1.3zm-2.3 4.3zm-1.8-4.7zm-.1-.4zm.2 1.3zm10.3-5.4zm2.9 3.4zm-2.3-1.7zm5.2 3.5zm13-30.4zm-.5 .1zm-.8 1zm17.8-8.2zm-23 47.8zm1.4-1.8zm-1.3 1.8zm-28.5 6.5zm2.1 3.3zm1.6-1.8zm-1.9 2.1zm4.4-2zm.8 1.1zm2.2 1zm-4.3-.7zm4.3 1.2zm-21 .6zm-1.7-.8zm33.2 10.7zm-.6 2.3zm1.6-.7zm-2.6-2.7zm-.8 .7zm3.6 1.8zm-3.2-.3zm-8.2 4.4zm1.9 .3zm14.5-1.7zm1.2 4.9zm-2-1.1zm2.5-1.8zm-10.3 2.1zm-1.6-.3zm20.7-6.9zm-42.1 3.9zm-2.7 2.6zm8-.2zm2.8 3.8zm-.5 12.1zm0 10zm-.5 1.6zm-110.8 9.6zm-4-1.5zm9.7 .5zm-4.2-3.4zm-12.5-1.6zm-1.2 1.2zm0-.7zm41.6-3.1zm16.6 8.8zm-1-2.5zm19.7 8.5zm-.7 1.3zm14.9-12.6zm11.6 1.3zm-.1 0zm-2.1 .4zm.2-1.2zm5.5 20.3zm4.1-2.7zm-6.4-3.5zm-2.3 1.3zm49.8-37.3zm19.5-.2zm.7-.8z"/>
<path class="pt" stroke="#210b45" stroke-width="1.7" d="M529 638.4zm-1.3 5.1zm-1.7-4.6zm5.7 1.8zm-2.9-2.9zm.3 5.9zm-1.2 7.6zm1.2-.5zm-1.8-.8zm.8 1.4zm-1.7-1.9zm1.8 2.3zm-2.2 1.4zm.6-3.6zm-3.4 .1zm2.9 3.2zm-3.2-2.1zm5.9-1.9zm-2.9-.7zm8.1 .5zm-1.9 1.1zm5.5 1.1zm.7-1.5zm-1.8 4zm-3.1-.4zm2.6-4.9zm.7 5.2zm-2.2 .8zm1.5 16.2zm-4.3 4.6zm2-5.5zm-.8-.8zm1.4 8.9zm7.2-3zm-6.3 4.6zm.8-3.9zm4.1-.3zm-4.7 2.7zm1.1 2.1zm-6.4 2.8zm-3.9 3zm4.7-2.8zm-.7 4.2zm1.5-.7zm-1.3 .8zm16.4-5.1zm.8 1zm.4-1zm5 4.5zm-.6-5.9zm-5.1 3.5zm2.2-5zm1.8 6.8zm-4-.8zm20.8-4zm-1.3 3.9zm-.3-6zm-1.6 2.9zm-.4 6.9zm-1.7 1.2zm.4-.7zm1.4-3.2zm-1.1-.4zm-3 9.5zm0 .2zm1.3-1.3zm2.9 .8zm6.8 2.6zm2.3-4.9zm-5.2 1.6zm6.2 2.7zm-31.5-44.2zm2.1 6.3zm-5.5 3.7zm.6 1.1zm4.2-4.4zm-40.5 27.5zm2-1.8zm.2 3.5zm57.3-14.4zm0 .4zm15.3-.4zm3.1-16.6zm1.2-.1zm23 2zm-2.6 3.3zm6.2-14zm.1-.4zm24.3 18.5zm9.6 2.2zm-1.7-2.2zm-3.4 5zm11.7-5.7zm16.5-26.5zm19.9-9.6zm-3.7 2.4zm3.9 2.1zm-23.8 42.2zm-41.2 10.6zm48.1 14.1zm-35.1 30zm-120.7 9.3zm.1-.6zm52.2 3.7zm114.4-26.8z"/>
<path class="pt" stroke="#6f196d" stroke-width="1.7" d="M539.5 677.8zm10.8 6.7zm14.8-3zm-1 7zm8 4.5zm-1.3 1.7zm-25.7-60.9zm1.4-2.6zm-1.5 3zm-1.3 17.9zm-1.5-.3zm1.2-1.3zm1 .8zm-1.3 .6zm-1.1 9.3zm23.1 13.8zm18.6-18.5zm-.8-1.5zm14.1 1.4zm-2.8-5.9zm-2.9 4zm3.2-2.3zm1.1 2.9zm8.8 6.8zm-.2-1.1zm7.9-21zm-.9-1.3zm2.2 1.8zm-3.9 5zm.4 .6zm2.5-.5zm-2.9 1.9zm1.4 13.1zm1.6-.5zm-1.3-2.6zm-.7-.1zm8.6 12.4zm1.1-3.6zm-.9 1.9zm-3.7 .9zm3.4-2.7zm6 4.2zm-2.8-1zm0-.3zm8.5-4.1zm-.6 5.4zm2.9-3.6zm.8 .9zm-4 1.2zm10.2 2.1zm.5-2.3zm-2.3 .1zm11.5-1.8zm1.6-3.1zm3.1 6.4zm.8-1.2zm-.9 .2zm-1.5-.8zm2.1-1.8zm-1.2 4.1zm-1.5-2.4zm.2-.6zm32.9-35.8zm.5-.8zm-2 1.3zm-22.2 43.6zm.9 2.7zm-27.6 7.6zm.2-1.8zm2.8-.1zm-3.1 2.2zm5.5 1zm-2.4 3zm1.1-.1zm-1.4-3.8zm-15.4 .9zm-.4 1.7zm-1.2-1zm31.8 10.2zm1.4 1.6zm-2.8-2.2zm-.1 1zm-9.2 6.8zm16.7-1.2zm-.2 2.1zm.3-1.7zm-.2-1.5zm.9-.8zm-.2 0zm-1.6 2zm4.1 2.4zm-.9-3.4zm-12.4 5.2zm2.9 1.2zm21.7-11.2zm-1.8 .4zm1.8 0zm-2.5 .1zm.9 .7zm-45.6 5.4zm11 18.2zm-1.9 9.7zm-109.4 7zm4.3-4.9zm-2.3 0zm.5 4.4zm-1.3-2.9zm-13.9 .8zm-2.8 1.7zm1.4 .7zm.9-2zm1.1 .5zm55.2 4.6zm1 .7zm-.5 .1zm33.5-3.9zm11.1-.9zm6 12.7zm-1.6-1.2zm-26 10.1zm90.5-44.9z"/>
<path class="pt" stroke="#892269" stroke-width="1.7" d="M543.1 650.8zm23 23.3zm18.1-18.5zm11.4-1.3zm9.1 7.5zm7.4-22.1zm1.9 12.2zm-1.7 2.6zm1.1 3.5zm3.9 0zm-.5 1.8zm-2-1.4zm-6.1 1zm.1-.4zm10.2 6.8zm-2.2 2.4zm2.3-4.2zm-2.4 4.4zm6.2 .4zm8.9-.7zm-1.5-.1zm9.9 2.3zm-.7-2.6zm7.6-3.8zm.6-1zm3.3 4.1zm-2.9 .6zm2.1-2.6zm-3.1 .4zm6.8 3.5zm-2.3 .1zm1.3 .8zm-1.8-2zm2.3 .7zm32.2-35.6zm-47.8 51.5zm-4 1.3zm.9 1.5zm0-2.4zm-.3-.1zm4.2 5.2zm.9 .8zm-1.7-1.7zm15.4 11.1zm-.5-1.3zm-9.3 4zm-1.4-.7zm.9 2.2zm-.2-.2zm15.8 2.6zm-.5-1.4zm-8 4.6zm22.2-10.4zm-46 4.4zm-99.7 35.4zm-5.1 .8zm1.8 1zm8.9 .1zm-1.9-.6zm-2.8-1.8zm3.3 2.8zm24.3-6zm-.1 2.8zm47.1 .9zm15.4 16.1zm-.4 .8zm3.3-2.6zm2.1 .8zm-29.3 6.7zm.2-.2z"/>
<path class="pt" stroke="#0e0725" stroke-width="1.7" d="M506.4 688.7zm-.1 .4z"/>
<path class="pt" stroke="#a22c60" stroke-width="1.7" d="M592.2 654zm5.2-.7zm-4.5 2.3zm2.7-3.4zm18-1.9zm-2.6 2.8zm3.5 3.4zm2.3 3zm-.4 8.1zm-.7-.2zm3.3 1.6zm29.9-2.6zm4-.4zm-17.2 18.3zm-1.4 1.1zm6.4 3.5zm-1.1 .3zm-.1 .2zm3.9 14.7zm17.9-1.3zm.3 .4zm-12.5 6zm-125.6 29.3zm1.9 1zm-1.7-2.1zm6.3-.6zm1.7 0zm24.1 .8zm64 16.9zm-.9-.1zm-.8 4.4zm2.5-4.3zm-3.9 1zm-.7-3zm1.5-.6zm1.1 6.6zm1.7-3.9z"/>
<path class="pt" stroke="#bc3754" stroke-width="1.7" d="M592.6 654.8zm18.7-2.8zm-2.6 .1zm6.4 3.5zm-.4 3zm3.9 .1zm-9 .6zm1.6-1.7zm5.8 9.4zm31.1-.9zm.1-1.7zm6 3.4zm.2-.3zm5.8 36.1zm-136.8 35.2zm-.3 1.9zm-3.2-.4zm6.2-1.8zm3.8-.9zm-.2-1.6zm1.3 4.3zm24.3-3.7zm60.4 21.1zm.1-1.8z"/>
<path class="pt" stroke="#d14744" stroke-width="1.7" d="M611.6 650.5zm-1.1 .4zm2.7 .8zm-.5 2.9zm-.3 4.4zm4.4-1.2zm-1.9 .4zm2.3-.8zm-1.5 3zm-5.9-2.6zm-85.8 80.7zm4.7 .9zm1.6-1.7zm24.4-1zm62.9 16.9zm.1 3.6zm-.9-.2zm2.2-3.4z"/>
<path class="pt" stroke="#f0731d" stroke-width="1.7" d="M612.2 652.7zm-1.5 .6zm4.4 5.9zm-1.1 .7zm-5.6-1.1zm-78.5 79.4z"/>
<path class="pt" stroke="#e25b32" stroke-width="1.7" d="M610.7 649.9zm.9 5.1zm2.4 4.8zm-5.7 .5zm2.6-2.3zm-82.9 80.3zm90.4 18zm.6-2.5zm-2.2 2.4z"/>
<path class="pt" stroke="#fbab12" stroke-width="1.7" d="M611.5 653.8z"/>
<path class="pt" stroke="#f88e12" stroke-width="1.7" d="M614.6 660z"/>
<path class="pt" stroke="#f8ca37" stroke-width="1.7" d="M616.8 657.9z"/>
<path class="pt" stroke="#210b45" stroke-width="1.3" d="M532 641.2zm-2 .6zm-1.2-3.1zm-3.1 2.2zm1.9-2.8zm-1.4 13.2zm2.2-2.1zm-3.6 1.1zm2.8-1.9zm-4.4 .6zm.5 2.6zm10.2-2zm1-1.3zm-2.2 4.4zm.8-2.3zm5.3 2.3zm-3.9 1.6zm3.5-3.9zm-6.2 .8zm3.5 1.3zm1.2 2zm-5 20.8zm2.2-.7zm-4.8-1.8zm.6-1.2zm1.4 4.2zm-1.9-5.4zm6.4-.5zm-1 5.9zm1.6 .4zm6.3-.2zm-.7 1.6zm0-2.4zm-3.5-1.4zm2.1 3zm-13 5.6zm-.2 5.1zm4.5-2.2zm-1.6 2.6zm-2.5-5.7zm1.4 2.2zm-3.1-1.3zm5.8 1.7zm-.4 2.1zm-4.3-.1zm4.4-.2zm-3.1-2.6zm19.9 1.1zm-.8-1.7zm7.3 .2zm-1.9-3.2zm.3 2.2zm.4-3.2zm-2.7 .7zm-1.8 2.6zm.6 3.7zm-1.5-2.1zm15.4-2.7zm3.8-2.2zm-1.3 4.4zm-3.3-2.4zm2.2-.4zm.5 7.7zm-3.4-.2zm5.1-.1zm-4.1 7.8zm8.4-3.8zm-1.2 5.4zm-2.6-1.9zm4.7-2.6zm2.2 2.2zm-1.7-4zm-4.6 4.4zm6-1.2zm-6.4 .4zm1.6-2.3zm.7-.8zm-.1 5.4zm1.9-6.4zm-1.7 6.6zm-26-62.7zm3.3-3.6zm-5.9 9.6zm-1.1 18.5zm3.6 4.7zm1.2-5.1zm-4.2-.3zm-37 28.4zm1.3 1.9zm1.1-3zm60.9-11.8zm10.4 .6zm-3.2-2.6zm-.3-.4zm7.8-16.4zm4.1-1.2zm-.7 2.6zm-3.3-1.5zm3.2 2.5zm28.9-18.2zm.8 1.1zm-6.5 7.3zm1.4-5zm11.2 27.4zm22.4-.1zm-4.9 1.6zm1.8 .4zm25.5-32.3zm3.6-.3zm13.6-8.2zm-20.1 47.3zm-29.1 9.5zm-10.6 .1zm-2 1.7zm-1.7-.6zm24.2 15.1zm5 2.1zm24.7-6.3zm-49.4 2.8zm6.7 2.5zm-118.3 31zm-1.1 4.2zm75.9 11z"/>
<path class="pt" stroke="#3c0a62" stroke-width="1.3" d="M527.6 639.4zm1.3 1.3zm-.5 1.5zm1.5 .9zm-2.3-3.3zm-.7 10zm-3.1-.3zm2.6-1.6zm-2.1 .3zm10.3 2.4zm1.7-1.6zm-2.7 3.5zm3 1.7zm1.8-3.5zm-2.8-2.3zm-3.8 22.5zm5.1 2.6zm-4.1 2.3zm-.8-4.5zm-.1-.3zm5.4-.1zm-6.7 3.2zm-.3 .5zm4.8-2.2zm.8-.4zm-1.5 2.7zm.8 4.4zm-.5-1.9zm4.8 2.8zm-4.6-4.4zm5.4-.4zm-.6 2.8zm-3.8 .5zm4.3 .7zm-6.7-2zm2.4-.5zm1.9 2.9zm2.1-6.2zm1.8 3.9zm-10.2 8.6zm-1-.1zm-3.4-2.8zm.1 1.1zm-.3 .5zm22.1-.1zm3.1-2.8zm-.9 2zm-3.7 1.4zm-.3-2.5zm2.7 3zm-3.4-3.2zm1.8-1zm15.3 .3zm2.3-.4zm-1.5 1.2zm4.6-.2zm-2.2 1.8zm-1.5-1.3zm2.1-2.1zm-4.1 4.7zm-1.3 1.5zm4.4 1zm-4.2-.7zm4.5 1.7zm-1.8-3.6zm-3.3 10.8zm1.5-4zm-1.2 .5zm.6 2.7zm-.4-.7zm12.1 0zm-.7 .5zm-4.1-2.7zm2.5 5.2zm-1.6-2.3zm.7 1.3zm.9-2zm-1.2 1.6zm1.6 .4zm2.3-2.4zm-30.2-64zm2.4 1.6zm-3.4-.3zm1.8 3.6zm.7-4.2zm-1.8 2.6zm-.9 8.2zm-.7-.4zm-2.5 0zm4.3 11zm-.1 7.8zm-2.6 1.4zm3.2 1.4zm-3.4-.2zm1.6-4.2zm0 6.8zm2.4-6.3zm-4.1 5.9zm1-.5zm3.4-2.6zm-2.5 2.3zm-37.6 23.4zm1.3 .1zm-1 .9zm58.9-13.5zm-.5-2.5zm1.5 2.9zm-1.2 .1zm12.8-5.5zm.5 4zm-.9-4.1zm1.9-.4zm-4.7 2.7zm2.8-2.9zm2.1 .6zm.5 1.6zm4.2-18.1zm.9 4.4zm2.1-3zm-3 3.3zm1.4-4.7zm6.5 .7zm5.7-.7zm-2.8-3.1zm9.6 11zm1-1.9zm8-21.4zm1.1 .6zm-2.8 4.1zm1.5-1zm-1.2-1zm-2.5-2.9zm3.9 1.3zm-2.6 7.9zm-.2-.7zm-2.4-1.4zm15.7 22.7zm5.9 .5zm0 2.8zm2.9-2.1zm-3.5-2.9zm3.4 4.8zm-.8-2.1zm-.2 2.6zm9.9-.7zm0-1zm.5-2.2zm8-4.7zm1.8 1.6zm-3.2 4zm-2.4-3.9zm4.7 4.2zm5.1-2.9zm13.7-26.6zm-1.7-2zm-.5 3.6zm16.3-8.8zm3.6-.2zm-.5 2.5zm-.2-3zm-1.3 4.1zm1-.6zm-.1-4.9zm-2 1.4zm3.4 2.2zm-2.8 1.8zm.8-5.4zm-22.1 45.8zm1.3 1.5zm-.4 .6zm-26.5 4.9zm2.5 2.7zm.6 4.5zm-1.6-3.5zm-18.4 3.6zm.6-3.2zm32.1 11.8zm-1.2-2.1zm-12.8 7zm5.6 .8zm-4.1 1zm.6 .2zm17.5 2.3zm-1.5-3zm-9 3.3zm23.1-9.8zm.2 2.4zm-46.9 5.6zm6.7 1zm0-1.7zm.3 1.7zm-.4-1.7zm4.3 4.9zm0 23zm-114.1 10.1zm-2-1.1zm5-3.8zm-2.6-1.4zm-8.2 2zm-.6-.4zm-1.1 3.1zm40.5-6.5zm14.9 7.8zm.9-1.3zm.2-1.2zm19.6 10.9zm13.9-11.5zm11.6 .5zm-.9 .5zm9.1 14.3zm-7.8 1.1zm68.8-39zm.8-2.6zm-.8 2.4zm-2.1-3zm1.4-.3z"/>
<path class="pt" stroke="#56106b" stroke-width="1.3" d="M528.7 642zm1.1-1.8zm.2 1.7zm-4.7 7.8zm.9-1zm11 2zm.2 .1zm-4 18.8zm-1.4 2.6zm1.5 .9zm1.7 .7zm-3.3-.4zm7.9 3.8zm-.7 1.8zm-2.3-3.4zm2.2 3.1zm-1.8-2.5zm1.8-1zm13.3 7.4zm-4.6-.8zm3.3-.1zm.8-1.8zm.1 5.5zm-.2-3.7zm-.5-1.9zm-2.5 1.3zm1.3 3zm3.1-2.6zm13.7 1.1zm-2.4 4.3zm-2.7 7.9zm7.1-.4zm4.3 .9zm-4 1.7zm-25.6-65.5zm-.7 2.5zm-.1-1.6zm1.9 .5zm1.9-1.8zm.7 2.4zm-1.7-1.9zm-.4-.1zm-4.3 11.7zm2.9-.7zm-.9 .8zm1.4 6.8zm-1 1.5zm.2 9.6zm-3.3-1zm4.9 3.2zm-4.3-3.7zm4.2 4.1zm-2.3-3.2zm2.5 2zm20.8 10.6zm12.6 .4zm.9-.5zm-1.9-1.9zm2.8 1.5zm2.4-15.6zm.2-1.8zm2.9-.3zm-3.1 1.6zm2.1 1zm6.4-3.4zm3.5-3.1zm2 .5zm-1 1zm-.9 1.9zm-1.1-1.8zm-2.2-.4zm14.7 11.5zm-2-2.5zm-1.2 .4zm2.5 0zm7.7-24.3zm.2 4.5zm-1.2-2.1zm1.1 2.5zm-1.1-2.3zm-1.7-2.9zm-1.6 9.1zm4.1 1.2zm-3.3-3.6zm.1 18.2zm2.5-3.9zm5.6 6.9zm-.8 .1zm-.4 2.3zm8.5 2.5zm-.9 .8zm-2.6-3.4zm2.3 3.5zm7.4-3.4zm1.7 2.9zm-1.6-5.3zm-2.8 4.6zm13.8-2.8zm-3.8 2.9zm-1.4-2.5zm10.6 .9zm.7-4zm2.4 1.4zm-1.6-2.5zm4 1.8zm-1.4 4.7zm3.3 0zm-5.1 .1zm5.5-.5zm-3.2 .7zm16.5-33.1zm-2.1 2.8zm1.2-.4zm0-.5zm1.2-.2zm15.6-4.1zm2.4-1zm-4-1.6zm2.8 2.3zm2.3-.3zm-3.4-4.1zm-20.9 47.4zm-2.5-2.4zm-1.4 .5zm2.9 2.4zm-.6 1.3zm-1.4-.3zm1.4-1.2zm-2.1 .9zm1.8-.6zm-25 8.3zm-2.1 .4zm2.2 .3zm-3.7-4.1zm3 4.6zm-.6-1.2zm.4-.7zm3.3 4.4zm.3-4.3zm-2.2 4.8zm-15.5-2.3zm-.4-1.3zm29.2 13zm-10.4 2.3zm.3 1.9zm.8-2.5zm19.8 2.3zm-3.8 1.8zm3.7 1.3zm-1.7-3.7zm-11.7 7.1zm3.9 0zm-3-.1zm2.6-1.5zm21.5-10.3zm-3.4 .8zm3.2 .1zm-47.9 5.2zm1.3 2.3zm-.8-.3zm6.5-1.6zm-.1 1.2zm3.6 4.5zm.9 13.5zm-.3-.9zm.5-.9zm-116.3 19zm-.4-.1zm.9-1.2zm1.5-1.9zm4.9-1.9zm.5 5.8zm3.5-3.3zm-21.2 .6zm2.7 2.4zm54.7 1.2zm1.6-.2zm0-1.3zm.4-.2zm19.4 8.4zm-.9 2.2zm15.9-12.7zm7.6 1.4zm.2-1.4zm2.8 .8zm6.8 14.2zm-3-2.9zm-27.5-10.9zm71.4-23.3zm-.1-.9zm20.1 1.8zm.8-.3zm-1.5-.3zm.2-1.7z"/>
<path class="pt" stroke="#0e0725" stroke-width="1.3" d="M532.2 640.8zm-3.6 7.4z"/>
<path class="pt" stroke="#6f196d" stroke-width="1.3" d="M533.1 671.9zm6.2 4.6zm-.7 .4zm12.1 4zm16.5 .4zm-20.8-49.6zm-1.3-.2zm-2.4 10.3zm-.6 21.3zm34.7 8.6zm-.7 .5zm.8-2.3zm15.2-15.4zm4.7 2.4zm.2-1zm1-2.2zm-3.5 3.4zm10 3.1zm6.2-20.5zm2.2 5.5zm-3.8 .7zm.8 4.1zm7.6 10.9zm-1.2 .3zm-4.8-3.9zm5.6 12.4zm-.4-3.3zm.7-.1zm2.4 2.9zm-1.3-3.3zm4.4 2.5zm0 .4zm1.8-.4zm3.8-1.4zm2.6 1.3zm1.3 .3zm8.3-.2zm-.2 2.9zm9-3.2zm1.4-3zm1.9 1.3zm3.4 2.9zm28.9-35.2zm1.3-1.2zm-2.7 .2zm.4 .4zm2.4-.5zm-48.4 50zm-4.8 4.3zm1.3-4.8zm1 3zm.2 3zm1-2.9zm.7-2.9zm2.2 8.7zm-.4-1.2zm2.8-1.1zm-1.9-3.4zm.9 4.5zm-1.4-1.6zm-17.7-.3zm28.8 9.1zm.6 .5zm.6 2.7zm-11.9 1.4zm21.2 4.5zm-11.7 1.2zm-.3 2.1zm1-2.4zm21.9-7.6zm-47.4 4.2zm1.2 2.5zm-.4-.1zm10.4 5.1zm-113.4 26.1zm-1 .2zm2.6 1.5zm1.2 .4zm1-2.5zm2.5-.4zm-16.3 .7zm0 1.2zm.6 .8zm41.6-1.6zm63.2 20.8zm.5-7zm-1.1 6.9zm-2.7-5.6zm-23.2-13.2zm89.7-24.2zm1.9 .3z"/>
<path class="pt" stroke="#892269" stroke-width="1.3" d="M544.7 632.4zm.6-1.1zm-3.7 10.9zm.3 19.7zm1.5-.5zm33 10.6zm-.1-.2zm29.7-9.5zm5.3-22.4zm0 7.4zm-.6-.5zm-1.1-.1zm-.1 8.1zm3 2.9zm-.4 .3zm6.5 1.3zm-8.3 2zm8.7 3.6zm-3.7 2.3zm8.5 1.2zm-.7 .3zm7.3 .5zm20.3-4zm3.6 3.8zm-.1-3.6zm-2.5 3.8zm-14.7 17.3zm-3.6-2.3zm.3 1.8zm8.2 .9zm1.4 17.3zm16.6 3.1zm-1.4-1.1zm-.1-2.2zm2.8 3.2zm9.6-7.7zm-44 5.1zm-1.5 .7zm-104.9 34.4zm4.1 3.2zm.2-.7zm-2.3 1.4zm1.5-5.6zm5.4 3.1zm2.4-1.9zm-6-.5zm2.6 3.3zm-2-4zm3 3.5zm-.5 1.1zm-16.8-3.6zm43-1zm15 4zm32.4-3.4zm16 20.2zm2.4-6.7zm.8 2.1zm-4.2 2.5zm2.7-2.1zm-.8-2.6zm43.4-36zm20.8 .3z"/>
<path class="pt" stroke="#a22c60" stroke-width="1.3" d="M596.5 655.4zm-3.2-3.8zm.9 4.1zm-.2-1.1zm17.4 1.3zm1.8-.8zm-1.3-4.3zm1 .1zm1.2 2.4zm1.2 4.9zm.7 1.5zm-6.8-1.8zm2.9 2.6zm-3.9 .4zm10.4 5.8zm1.4-.1zm-2.3 .4zm31.4-1.5zm.3 1.7zm1.5-2.1zm-1.3-.3zm-12.2 20.8zm3.5 2.8zm-3-1.1zm2.6 2.2zm.3-1.5zm11.2 11.2zm9.3 4.4zm-2.2 2.6zm-136.3 35.4zm-.3-2.7zm1.1 4.2zm-1 .3zm8.8-4.5zm.2 .9zm22.5-2.4zm1.2-1.7zm65.8 20.1zm-4.4-4.7zm5.4 3.6zm-.8-.1zm-7.5 1.1z"/>
<path class="pt" stroke="#bc3754" stroke-width="1.3" d="M594.7 652.9zm-.9 1.1zm1-1.3zm14.7-.9zm.8 1.6zm-.9 .6zm7.5 2zm-.5 .8zm-6.3 4.7zm8.3 5.2zm-.6 1.9zm34.9-.3zm-18.2 15.6zm26.6 20.5zm-138.4 36.1zm7.4-4.6zm-2.1 1.1zm27.1-1.3zm61.7 17.1zm2.9 3.1zm-1.1-1.3zm-26.9 5.9z"/>
<path class="pt" stroke="#d14744" stroke-width="1.3" d="M611.2 651.7zm.6-.2zm5.8 5.2zm-1.8 4.3zm-6.7-2.2zm49.7 45.1zm-138.2 38.1zm3.1 .3zm.3-3.9zm6.1-1.7zm-1.8 4.6zm-.4-4.6zm92.6 18.7z"/>
<path class="pt" stroke="#e25b32" stroke-width="1.3" d="M613.4 650.6zm-.6 1.9zm-82.4 88zm-2.7-3.5zm26.1-.5zm65.6 17.2zm-.5-.7zm-1.9 .5zm1.6-.3z"/>
<path class="pt" stroke="#f88e12" stroke-width="1.3" d="M610.9 652.1zm5.4 5.4zm-87 82.4zm-.5-1.1z"/>
<path class="pt" stroke="#f8ca37" stroke-width="1.3" d="M611.6 651.6zm3.8 5.6z"/>
<path class="pt" stroke="#f0731d" stroke-width="1.3" d="M611.8 650.8zm1.1 .8zm-89.8 89zm95.8 14.3z"/>
<path class="pt" stroke="#fbab12" stroke-width="1.3" d="M615.4 658.8z"/>
<path class="ct" stroke-width="1.45" stroke="#fff" d="M538.312 629.062V630.438V631.812V633.188V634.562H539.688V635.938H538.312V637.312V638.688V640.062V641.438H536.938V642.812V644.188V645.562V646.938V648.312V649.688V651.062V652.438V653.812V655.188V656.562V657.938H538.312V659.312V660.688V662.062V663.438H539.688V664.812V666.188H541.062V667.562H542.438V668.938H543.812V670.312V671.688H545.188V673.062H546.562H547.938H549.312H550.688H552.062H553.438H554.812V674.438H556.188H557.562V675.812H558.938H560.312H561.688H563.062H564.438H565.812H567.188H568.562H569.938H571.312H572.688V677.188H574.062H575.438V678.562H576.812H578.188H579.562V679.938H580.938H582.312H583.688H585.062H586.438H587.812V681.312H589.188V682.688V684.062H590.562V685.438H591.938V686.812H593.312H594.688V688.188H596.062V689.562V690.938H597.438V692.312V693.688H598.812V695.062V696.438V697.812H600.188V699.188V700.562V701.938V703.312H601.562V704.688V706.062V707.438H600.188V708.812V710.188H598.812V711.562V712.938H597.438V714.312H596.062V715.688H594.688H593.312H591.938H590.562V717.062H589.188H587.812H586.438H585.062V718.438H583.688H582.312H580.938H579.562H578.188H576.812H575.438V717.062H574.062H572.688H571.312V715.688H569.938H568.562V714.312H567.188H565.812V712.938H564.438H563.062V711.562H561.688H560.312H558.938V710.188H557.562H556.188H554.812H553.438H552.062V708.812H550.688H549.312H547.938H546.562H545.188V710.188H543.812H542.438H541.062H539.688V711.562H538.312H536.938H535.562V712.938H534.188H532.812H531.438H530.062H528.688H527.312H525.938H524.562H523.188H521.812H520.438H519.062V711.562H517.688H516.312H514.938V710.188H513.562H512.188V708.812H510.812V707.438H509.438V706.062H508.062V704.688V703.312H506.688V701.938V700.562V699.188V697.812V696.438V695.062V693.688V692.312H508.062V690.938V689.562H509.438H510.812V688.188H512.188V686.812H513.562V685.438H514.938V684.062H516.312V682.688V681.312H517.688V679.938V678.562V677.188V675.812V674.438V673.062V671.688H516.312V670.312V668.938V667.562H514.938V666.188V664.812H513.562V663.438V662.062H512.188V660.688H510.812V659.312H509.438V657.938H508.062H506.688H505.312V656.562H503.938H502.562M690.938 686.812V688.188H689.562H688.188V689.562V690.938V692.312V693.688V695.062V696.438V697.812V699.188V700.562V701.938V703.312H686.812H685.438H684.062V704.688H682.688H681.312H679.938V706.062H678.562H677.188V707.438H675.812V708.812H674.438V710.188V711.562V712.938V714.312H673.062V715.688V717.062V718.438V719.812H671.688H670.312H668.938V721.188H667.562H666.188V722.562H664.812V723.938H663.438V725.312H662.062H660.688V726.688H659.312H657.938H656.562H655.188V728.062H653.812V729.438V730.812H652.438V732.188H651.062H649.688V733.562H648.312V734.938V736.312V737.688V739.062H646.938V740.438V741.812H645.562V743.188H644.188H642.812V744.562V745.938V747.312H644.188V748.688H645.562H646.938H648.312H649.688V747.312H651.062V745.938V747.312V748.688H652.438V750.062V751.438V752.812H651.062V754.188V755.562H649.688H648.312H646.938H645.562H644.188V756.938H642.812H641.438H640.062V758.312H638.688H637.312V759.688V761.062H635.938V762.438V763.812M615.312 763.812V762.438V761.062V759.688H616.688H618.062H619.438V761.062V762.438V763.812"/>
</g>
<text x="541.4" y="701.5" class="m w">uro</text>
<text x="609.8" y="730.5" class="m w">lp</text>
<text x="672.8" y="746.5" class="m w">msc</text>
<rect x="505.6" y="757.8" width="50.4" height="3.2" fill="#fff"/>
<clipPath id="cpj"><rect x="503" y="835.1" width="187.9" height="135"/></clipPath>
<rect x="503" y="835.1" width="187.9" height="135" fill="#000"/>
<g clip-path="url(#cpj)">
<path class="pt" stroke="#210b45" stroke-width="1.7" d="M527.6 846zm-1.6 1.5zm3.7-.3zm-1.7 2.2zm-.1 .7zm2.4-4.6zm-1.6-1.2zm1 5zm2.1-3.6zm-2.7 3.4zm-3.7-1.4zm3.5-1.8zm2 .4zm-5.5 7.8zm2.5 3.7zm.2 .2zm-1.7-1.9zm-1.5-.7zm3.3 2.9zm-.9 1zm-.7-3.2zm.5-.6zm-1 4zm1.6-2.1zm-.3-1.9zm10.9 4.3zm-2.3-2zm1.6-.9zm-3.5-.4zm-.4-.5zm2.8 4zm-.8-4.3zm-.4 2.3zm-1.6-1.1zm1.3 2.4zm1.7 .6zm-1.8 19.7zm.9 1.9zm-1.9-.4zm-1.9-1.8zm5.3-.4zm-7.8 1.9zm4.2-4.8zm-1.5 1.5zm4.9 3zm-2.3 .9zm-.3-1.8zm.4-3.1zm-5.5 1.4zm5-1.4zm0-1.3zm-3.7 3.6zm1.9-.4zm4.9-1zm-2.2 6.2zm.1-.8zm2.9 4.6zm-.8-4zm3.8 1.9zm.2-4.3zm.2 2.6zm-3.8-3.6zm1.4 1.5zm-.4-1.8zm-3.5 4.4zm4.8 2.4zm.1-3.2zm-4.7-.4zm5.4 2.3zm-2 .1zm-8.9 3.8zm-1.5 3.3zm2.3-3.1zm-.7 4.2zm-.8-.2zm.3-1.9zm-1.6 1.3zm-1.3-.8zm3.6 2.1zm-2.5-3.2zm-.8 2.2zm2.6-1.1zm.7 1.7zm.5-3zm17.3-4zm5.5 4.6zm-7.3-1.5zm3.8 .1zm-.8 1zm-1.8-1.4zm5.2 2.7zm-2-5zm-3.1 2.7zm4.5-3.6zm.2 .8zm-5.1 3.5zm6.2 .8zm-2.1-1zm1.3-1.9zm-3.2-2.9zm-1.5 2.7zm4.6 4.7zm-1.3-.6zm3.3-2zm-5.9-3.6zm18 1.5zm1.4-.6zm-.8 2.3zm-1.5 1.6zm-.5-2.9zm.3 .5zm-1-.3zm.8-2.9zm-1.5 4.3zm3.6-1.6zm-1.5-.8zm1.2 1.6zm.9-1.5zm-2.1-2zm-1.1 2.5zm-.4 6.8zm-1.3 .6zm1.4-3.2zm-.5-1.1zm2.2 2.4zm-1.9 2.7zm-.8-3.3zm-.1-1.1zm3 1.5zm-3.7 1.6zm2.3 .2zm-4.6 5.2zm2.4 1.8zm-2.2-2.5zm2.6 .5zm-.9-2zm.7 4.1zm-1.3-2zm-1.2 .6zm10.9 2.7zm-.5-3.1zm-1.6-.1zm0-1.7zm3.9 3.4zm.5-3.3zm-.5 .8zm-2.2 2.4zm2.2 .3zm-2.1-4.2zm1.2 6zm-4.3-3.7zm-24.8-41.5zm-.9 .1zm-.5-1.3zm3.5 7.5zm-5.5 3.6zm.6 1.1zm.7-5.2zm-1.2 4.5zm3.1 1.2zm1.6-4.9zm-3 1zm-35.5 24.7zm.2 3.8zm-.1 .3zm57.4-14.9zm15.3-.1zm64.9-5.1zm-1.7-2.2zm-7.1 64.7zm-120.6 8.7zm37.2-3.9zm68.9 21.9z"/>
<path class="pt" stroke="#0e0725" stroke-width="1.7" d="M529 844.9zm-1.3 5.1zm-1.7-4.6zm5.7 1.9zm-2.9-2.9zm.3 5.8zm0 7.2zm-1.8-.8zm-1.3 3.2zm-2.8-3.5zm-.3 1.1zm5.9-2zm-2.9-.6zm8.1 .4zm-1.9 1.2zm5.5 1zm.7-1.5zm-4.9 3.7zm2.6-5zm-1.5 6zm1.5 16.2zm-4.3 4.6zm1.2-6.2zm1.4 8.8zm.9 1.7zm.8-4zm4.1-.2zm-3.6 4.8zm-10.3 5.7zm5.5 .8zm15.1-4.3zm1.2 0zm5 4.5zm-5.7-1.4zm19.5-.1zm-.3-6.1zm-3.7 11.1zm-2.3 5.1zm0 .3zm4.2-.6zm3.9-.6zm6.2 2.7z"/>
<path class="pt" stroke="#3c0a62" stroke-width="1.7" d="M525 857.4zm10.7 .3zm-1.5 .1zm.2 .7zm.5 20.7zm-2.4-2.2zm-.6 0zm-1.3 3.1zm1.8-.6zm7.3 4.2zm-.2 .7zm-1-1.5zm12.8 5.7zm-1 2.5zm.8-.6zm.2-1.4zm13.8-1zm1.4 .7zm-1.9 7zm-.2-.3zm-1.7-1.4zm1.2-1.1zm-.7 2zm.9 .1zm9.1 7.5zm-1.1-3zm-1.3 1.6zm2.1 .1zm-30.3-62.6zm3.9-2.2zm-6.1 12.4zm2.3 1.4zm-.5-.4zm2.9 8.3zm-2.2-.6zm1.8-1.3zm-.9 14.4zm-.1-.1zm-2.9-3.4zm.7 1.6zm3.7-1.4zm.3 .1zm-.7 3.2zm-4.6-3.1zm1.7 3zm-.7 .6zm.4-1.8zm22.1 11.7zm.5-.5zm15.6-3.9zm-.1 2.6zm-4.6-2.9zm7-12.4zm1.2 0zm23 2zm-2.6 3.3zm5.4-20.8zm3.5 4.1zm-2.7 2.6zm.1-.4zm.9-.6zm7.5 21.7zm15.9-2.6zm5.2-.3zm-.7 5.4zm11.2-3.6zm-2-5.1zm2.5 3zm16.5-26.6zm19.9-9.5zm-3.7 2.3zm3.9 2.2zm-25.9 42.5zm3.9 .1zm-1.8-.5zm-30.7 6.8zm4.5 3.7zm.6 2zm-15.6-1.9zm31.1 9.2zm5.1 10.4zm11.9-5.4zm2.2-2.9zm-37.2 12.3zm-.1 .1zm.5 11.5zm.2 10.1zm-107.7 9.8zm0 .2zm-13.7-1.9zm41.3-5zm11 8.1zm22.8 7.7zm-.2-.3zm25.4-12.2zm3.1 20.1zm4.9-4.3zm-.8 1.7zm-6.4-3.5zm-2.3 1.3zm-21.9-14zm.6 20.5zm89.2-43.7z"/>
<path class="pt" stroke="#56106b" stroke-width="1.7" d="M544.3 838.2zm1.7 1.6zm.5-.3zm-3 0zm3 0zm-2 1.1zm-1.7-1.8zm-2.4 10.2zm.4-1zm2.5 1.4zm.4 9.2zm-1.5-.3zm1.2-1.2zm1 .8zm-1.3 .5zm-1.1 9.4zm-37.8 25.5zm1.4-1.1zm.8 2.9zm57.5-14.8zm.8 .4zm10.5-4.2zm1 1.3zm1.9 .1zm-1 3.4zm-.9 .1zm20.7-18.8zm-2.8 1.2zm1-.6zm.6-4.5zm-2.6-1.7zm.2 6zm2.5-1.2zm8.3 7.7zm2.9-1.3zm-2.8 1.1zm7.1-24.6zm1.3 4.4zm-.7-1.5zm.3-.2zm-2.2 1.4zm3.3-2.3zm-2.2-3zm-3.4 10.7zm3.8-1.4zm-3.7 .5zm2.9 .2zm-.7 10.2zm2.5 2.7zm-2-2.6zm1.2 3.1zm4.7 7.8zm1-.1zm1.4 .6zm1.7-2zm4 4.9zm8.6-4.7zm-.7 3.6zm-2.5 .2zm2.9-2.3zm-1.1-3.6zm7.5 2.3zm4.1 3.1zm-1.3-.7zm-1.8 2.3zm1.6-4.6zm-1.6-.4zm1.6 1.9zm5.7-.2zm-1.5-2zm3.9-2.5zm6.3 5.4zm12.9-30.6zm-3.6 .1zm.6-2.1zm20-2zm0 0zm-24.5 43.1zm.1 0zm-.6-2zm-1.3-.5zm-26.6 9zm2.1 3.2zm1.6-1.7zm-1.9 2zm2.1-5.4zm2.3 3.5zm3 2zm0 .6zm-22.2 1.3zm30.9 10.3zm1-1.9zm-9.4 6.2zm-.7-3.3zm-2.4 3.2zm5.6-1.4zm-1.4 2.2zm-3.8-1.7zm19.1-.4zm-.7 1.4zm.1 .4zm1.8 3.2zm-1.3-5.4zm1.8 2.5zm-.2-1.5zm-10.1 3.6zm22.6-6.7zm-48.4 3.8zm10.4 17.8zm-.5 11.7zm-110.8 9.5zm-4-1.5zm9.7 .5zm-4.2-3.3zm2-3.6zm-14.2 1.9zm.8 .7zm39.3-3.2zm14.8 9.8zm20.5 5zm-.7 1.2zm14.9-12.6zm11.5 1.3zm5.3 12.3zm-1.6-1.2zm-26.7-10.8zm1.9 21.2zm.2-.2zm88-42.8zm1.9-3.8z"/>
<path class="pt" stroke="#6f196d" stroke-width="1.7" d="M545 838zm0 2.7zm-1.9 16.6zm-38.8 37.1zm62.3-15.4zm.3 1.2zm12.2-3.6zm-3.6 3.4zm2.4 .7zm1.3-4.1zm6.3-14.1zm-.3-2.1zm5.7 1.3zm6.4 0zm-6.2 .3zm6.6-1.3zm-5.7 1zm19.2-14.9zm-.6 .9zm.6 1zm-3.4 2.5zm1 2.3zm4.8 3.4zm.4 1.6zm-1.7 2.5zm1.1 3.6zm3.9 0zm-.5 1.7zm-2-1.4zm-3.9 2.1zm.3-3.2zm-2.5 2.2zm10.4 10.1zm1.1-3.6zm-.9 1.9zm-3.7 .9zm6.6-1.9zm-1.1 4.2zm-.2-.8zm3.2-2.3zm5.6-.2zm-2.5 1.6zm4.2-1.6zm1.5-2.3zm-2.7 5.1zm2-.3zm-2.1-4.6zm13.6 2.9zm-.7-1.4zm-4.1-.3zm-.1-.4zm10.5-4.2zm2.9 3.4zm2.9 1.8zm-.2-.8zm-2.7 1.6zm.2-.5zm16-30.7zm16.2-7.1zm-21.6 46zm-.5 2.7zm-27.7 8zm3.1 3.9zm1.1 0zm1.2-3.5zm-2.1 .3zm-.5-.6zm-17.9 1.6zm33.2 10.6zm-.6 2.3zm1.6-.7zm-2.6-2.6zm-.8 .6zm3.6 1.8zm-3.2-.2zm-6.3 4.6zm13.9 1.9zm-.3 0zm.1-3.2zm.9-.8zm-1.8 1.9zm4.1 2.4zm-12.6 0zm2.2 3zm19.2-10.6zm-.7 .6zm-42.1 4zm-2.7 2.6zm8-.2zm2.8 3.8zm1 13.5zm-1.5 8.6zm-109.8 8.1zm4.3-4.9zm2.5 5.7zm-1.9-.6zm-2.8-1.7zm3.3 2.8zm-2.9-1.9zm-1.3-2.9zm-13.7 .6zm-1.2 1.1zm0-.7zm43.4-2.2zm-.1 2.8zm14.2 2.3zm-1.6 1.7zm3.7-1zm31.2-1.3zm11.9-.5zm-2.2 .4zm.2-1.2zm7.5 15.7zm-.9-.1zm-1.5 1zm-.4 .8zm3.3-2.6zm2.1 .7zm60.8-38.5z"/>
<path class="pt" stroke="#892269" stroke-width="1.7" d="M545.1 840.3zm1.4-2.6zm-41.4 56.7zm60-12.9zm20.3-18.2zm11.6-.4zm-2.8-5.9zm-2.9 4zm4.3-.1zm-1.1-2.2zm1.1 2.9zm8.8 6.9zm1.2 1.7zm-2.1-.9zm.7-2zm6.8-19.9zm1.1-1zm-.9-1.4zm2.2 1.9zm-3.4 8zm-.1-2.4zm2.5-.5zm-1.4 7.6zm-2.3-.9zm6 6.5zm-.2-2.1zm2.3 3zm-8-.6zm8 9.3zm2.3-4.2zm-.1 2zm3.1 4.3zm-.2-1.9zm-.8 1.1zm6.9-2.1zm1.5 .9zm-.1 .2zm3.4-2.8zm7.9 5.8zm-2.5-2.9zm.8-1zm10.7-.8zm1.3 .1zm.3-3.2zm3.1 6.5zm-1.5-.4zm2.3-.8zm-.9 .2zm-1.5-.9zm.9 2.4zm14.4-33.7zm-.5 .1zm-.8 1.1zm18.5-6.3zm-1.5 .5zm-22.2 43.6zm-26.7 10.2zm.2-1.7zm2.8-.2zm2.4 3.3zm-18.9 1.5zm.4 .1zm-1.2-.9zm31.8 10.2zm-1.4-.6zm-9.3 7.8zm19.6-2.9zm-3.3 2.5zm3.6-2.1zm-13.4 5.6zm24.6-10zm-1.8 .3zm1.8 .1zm-1.6 .8zm-45.6 5.4zm9.1 27.8zm-108.2 6zm-3-.8zm-2.1 1.6zm1.8 1zm8.5-4.2zm-19.1 .9zm-2.8 1.6zm1.4 .8zm2-1.5zm42.6-1zm14 5.9zm-1-2.5zm33.2-1.8zm11.5-.1zm4.6 19.7zm2.5-4.4zm-4.9 3.3zm1-2.3zm-.9 .4zm.2-3.3zm1.5-.7zm1.1 6.6zm1.7-3.9zm62.2-37.8zm-.1-.9z"/>
<path class="pt" stroke="#a22c60" stroke-width="1.7" d="M505.4 893.4zm60.7-12.7zm17.6-17.6zm-.8-1.6zm29.2-15.2zm-2.6 5.6zm0 2zm2.1 3.1zm-.3 1.5zm-.8-1zm2.7 .7zm-.5 3zm2.4 1zm-2.7 3.4zm4.4-1.3zm-1.9 .4zm.8 2.3zm2.9-1.8zm-9 .6zm.2-1.5zm1.4-.1zm7.8 8.1zm-2.3 2.7zm2.3 .6zm6 1.3zm5.7-5.4zm3.1 2.7zm-4 1.1zm10.2 2.2zm.5-2.4zm-.3 1.8zm-.7-2.7zm7.6-3.7zm.6-1.1zm.4 4.8zm2.1-2.7zm-3.1 .5zm6.8 3.4zm-2.3 .1zm-.5-1.1zm2.3 .6zm32.4-37.3zm-48 53.2zm-4 1.4zm.9 1.4zm0-2.3zm-.3-.1zm4.2 5.2zm.9 .7zm-1.7-1.7zm-15.6-1.3zm31 12.5zm.6-.1zm-1.1-1.3zm-1.8 .1zm-7.5 3.9zm-1.4-.6zm.9 2.1zm-.2-.2zm7.3 5.8zm22.2-10.3zm-146.8 39.9zm-1.7-2zm6.3-.6zm-.1 .7zm-.2-1.6zm1.3 4.4zm-18.9-2.3zm43.2-1.4zm13.1 6.5zm1 .8zm-.5 .1zm48.7 9.5zm.1 3.7zm-.9-.2zm2.2-3.4z"/>
<path class="pt" stroke="#d14744" stroke-width="1.7" d="M584.2 862.1zm8.4-.8zm19.6-2.1zm-1.5 .6zm4.4 6zm-1.1 .5zm0 .1zm-5.6-1zm2.5-.8zm37.2 8zm.1-1.7zm6 3.5zm.2-.4zm-20.1 17.9zm-110.3 53.2zm4-.2z"/>
<path class="pt" stroke="#bc3754" stroke-width="1.7" d="M592.2 860.6zm5.2-.8zm-4.5 2.3zm2.7-3.3zm9.1 9.5zm6-11.9zm.9 5.2zm5.6 2.3zm-8.9 2.9zm8.7 6.8zm-.6 .5zm-.7-.1zm7.2 1.4zm-.7 .5zm0-.3zm9.6-1zm-1.7 2.2zm2.9-3.5zm-2.7 1.2zm18.6-1.5zm4-.4zm32.7-33.2zm-49.9 51.4zm5 4.7zm-1.1 .2zm-.1 .2zm3.9 14.8zm16.8-.5zm-11.1 5.5zm-22.9-5.2zm-102.8 34.8zm-.3 2zm-3.2-.4zm6.2-1.9zm2.6 1zm1.6-1.7zm24.4-1.1zm63.7 19.6zm.6-2.4zm-2.2 2.3zm46.2-39.3z"/>
<path class="pt" stroke="#e25b32" stroke-width="1.7" d="M611.5 860.4zm3.1 6.1zm-84.7 78.2z"/>
<path class="pt" stroke="#f0731d" stroke-width="1.7" d="M616.8 864.5z"/>
<path class="pt" stroke="#0e0725" stroke-width="1.3" d="M532 847.7zm-2 .6zm-4.3-.8zm6.5-.1zm-4.6-2.7zm1 10.1zm-5.4 .8zm.5 2.6zm10.2-2zm1-1.3zm-2.2 4.3zm.8-2.2zm5.3 2.2zm-.4-2.2zm-6.2 .8zm-2.9 21.6zm.6-1.3zm1.4 4.3zm-1.9-5.5zm6.4-.5zm-1 5.9zm7.9 .2zm-.7-.8zm-14.4 7.3zm-.2 5.1zm4.5-2.3zm-1.6 2.6zm-2.5-5.7zm-1.7 1zm5.8 1.7zm-.4 2zm-4.3-.1zm4.4-.1zm16.8-1.5zm-.8-1.8zm5.4-2.9zm14.5-1.1zm-4.6 2.1zm4.4 6.9zm-4.1 7.9zm7.2 1.5zm-2.6-1.8zm6.9-.4zm-1.7-4zm-4.6 4.4zm6-1.3zm-6.4 .5zm2.3-3.2zm1.8-.9z"/>
<path class="pt" stroke="#210b45" stroke-width="1.3" d="M527.6 846zm1.3 1.3zm-.1-2.1zm-.4 3.6zm1.5 .9zm-1.2-1.2zm1.3-.1zm-2.4-2zm-2.3 9.9zm1.6 0zm-.7 1.5zm-2.4-1.8zm2.6-1.5zm2 1.2zm-4.1-1zm.5 2.2zm2.8-1.9zm9.6 2.2zm-2.6-.1zm1.7-1.5zm-2.7 3.5zm3 1.6zm1.8-3.4zm-2.8-2.3zm-.7 5.9zm.8-1.8zm1.7-1.7zm-.5 3.6zm-3.5 15.1zm-1.4 2.7zm-.1 3.1zm-.1-4.5zm5.1 2.7zm-2.8 1zm-1.3 1.3zm-.8-4.6zm-.1-.3zm1.6 2.1zm3.8-2.2zm-6.7 3.3zm-.3 .4zm1.6-1.1zm3.2-1zm.8-.5zm-1.5 2.7zm2 1.6zm-1.2 2.8zm-.5-1.9zm4.8 2.9zm-4.6-4.5zm5.4-.4zm-.6 2.9zm-3.8 .5zm6.1-.9zm-1.8 1.6zm-6.7-2zm2.4-.5zm1.9 2.9zm1.2-4.4zm-.5-1.5zm1.4-.4zm1.8 3.9zm-1.1-.4zm-9.1 9zm-2.3-1.4zm1.3 1.4zm-3.4-2.8zm.1 1zm-.3 .5zm1.6-.6zm20.5 .5zm2.7-2.7zm3.2 1.8zm-2.8-1.8zm-.9 2zm-3.7 1.3zm-.3-2.4zm2.7 3zm3.4-3zm.4-3.3zm-2.7 .8zm.2-.4zm-4.7 2.7zm1.8-1.1zm.9 1.4zm-.5-1.6zm1.1 5.2zm3.3-4.8zm-4.8 2.8zm15.3-2.6zm.1-.1zm2.2-.4zm-1.5 1.2zm2.4 .2zm2.2-.4zm-2.2 1.9zm-.6-.3zm-.9-1zm-.2-1.9zm2.3-.3zm-1.8 8zm-2.3-3.3zm-1.3 1.5zm.2 1.7zm4.2-.7zm-4.2-.6zm4.5 1.7zm-1.8-3.7zm-.5 1.7zm-2.8 9.2zm1.5-4.1zm-1.2 .6zm.6 2.6zm-.4-.7zm9.5-2.2zm2.6 2.3zm-.7 .5zm-1-1.8zm-3.1-1zm2.5 5.2zm-2.3-4.7zm.7 2.5zm-.1 2.1zm.8-.8zm.9-2.1zm-1.2 1.7zm2.4-1zm-.8 1.3zm-1.9 1.1zm-1.3-.6zm5.5-2.9zm-30.2-59.3zm3.3-3.6zm-5.9 9.6zm-1.1 18.5zm4.1 3.6zm-1.8-4.5zm1.3 5.7zm-2 .2zm3.2-5.4zm-4.2-.2zm124.9-18.8zm-2.9 38.9zm-150.5 57.9zm74.8 15.1z"/>
<path class="pt" stroke="#3c0a62" stroke-width="1.3" d="M529.8 846.7zm-3.6 8.6zm6.9 23.2zm2.1 1.9zm4.1 2.7zm-.7 .4zm1.2 .3zm-.7 1.7zm-2.3-3.4zm2.2 3.2zm-1.8-2.5zm15.1 6.3zm-4.6-.8zm3-.9zm.3 .9zm.8-1.9zm.1 5.6zm-1.9-1.3zm17.2-2.9zm-5.5 13.6zm7.1-.5zm-24.4-64.1zm2.4 1.6zm-3.4-.4zm1.8 3.7zm.7-4.3zm-1.8 2.7zm-.9 8.1zm-.7-.4zm-2.5 0zm4.3 11.1zm-.1 7.7zm-.8 1.1zm-1.8 .3zm-1.5-1.2zm1.3 2.5zm1.6 2.5zm2.4-6.3zm-.4 4.4zm-3.7 1.6zm-.6-5.2zm4.2 4zm.8-2zm-2.5 2.4zm-36.5 21.8zm59.1-10.5zm-1.2 0zm3-1.3zm9.8-4.2zm1.5-.4zm-1.9-.2zm1 5.5zm-3.2-2.7zm-.3-.3zm7.8-16.5zm4.1-1.2zm-.7 2.6zm-.1 1.1zm11.8-4.4zm17.1-13.9zm.8 1.1zm-6.5 7.3zm1.4-4.9zm2.1 15.1zm9.1 12.2zm22.4-.1zm-4.9 1.7zm1.8 .3zm9.1-9.7zm-1.4 5.7zm-2.4-4zm4.7 4.2zm34.5-33.3zm-1.8-3.7zm-20 44zm1.3 1.5zm-.4 .6zm-30.1 10.7zm-10.6 .2zm-2 1.7zm-1.7-.6zm24.2 15.1zm-2.4 .6zm17.5 2.4zm-1.5-3zm3.9-1.2zm-12.5 3.3zm22.7-8.7zm.2 2.4zm1.8-.1zm-49.4 2.8zm6.7 2.6zm.7 1.4zm-109.9 36.3zm-2-1.1zm5-3.8zm-2.6-1.4zm-8.2 2zm-.6-.4zm-1.8 2.2zm41.2-5.7zm35.6 16.2zm13.9-11.5zm11.6 .5zm-.9 .6zm9.1 14.3zm-1-1.5zm-6.8 2.6zm66.7-42.2z"/>
<path class="pt" stroke="#892269" stroke-width="1.3" d="M544.7 839zm1.7-.7zm-1.3-.3zm-3.5 10.7zm35.2 29.5zm-.7 .5zm.8-2.3zm5.8-12.7zm3.1-2.1zm-3.1 1.6zm2.1 .9zm7.3-3zm4.7 2.3zm1.2-3.2zm12.7-13.9zm1.5 .3zm-3.3 6.1zm4-1zm-3.8 .8zm.4 5.9zm-.1 2.2zm3.8 1zm.9-1.7zm1.2 4.8zm.7 1.6zm.4-2.9zm-7.2 1.1zm2.9 2.5zm-3.9 .5zm9.2 5.4zm-2.1 .9zm9.9 2.6zm-.9 .9zm-.3 .1zm4.7-1.2zm11.8 1.6zm9-3.2zm1.4-2.9zm1.9 1.3zm3.4 2.9zm12.8-32.7zm-2.1 2.8zm1.2-.3zm0-.5zm17-4.6zm1.3-1.2zm-2.7 .3zm-.4-1.5zm.8 1.9zm2 .5zm2.3-.3zm-50.3 49.2zm-1.1 3.6zm-1.4-1.1zm1.2 .2zm2.5 4.5zm2.8-1.1zm-1 1.2zm-1.4-1.7zm11.1 8.8zm7.6 6.7zm2.8 3.2zm-11.6 .5zm-.3 2zm1-2.3zm20.5-7.9zm1.4 .3zm-47.4 4.2zm1.2 2.4zm-.4-.1zm10.4 5.2zm-115.6 28.2zm4.1 3.1zm.2-.7zm-2.3 1.5zm1.5-5.6zm5.4 3.1zm2.4-1.9zm-.3-.3zm-5.7-.3zm.6-.6zm3 3.4zm-.5 1.2zm-16.2-5.1zm.6 2zm40.9-2.2zm1.2-1.6zm12.1 6.9zm35-4zm14.4 14.2zm2.9 3.1zm-1.1-1.4zm-27.1-14.8zm89.7-24.1zm.2 1.4z"/>
<path class="pt" stroke="#a22c60" stroke-width="1.3" d="M545.3 837.9zm31.1 40.6zm-.1-.2zm29.7-9.5zm-1.5-2zm6.8-20.3zm-.6 6.9zm-1.1-.2zm1.6 5.1zm2.2-1.2zm-3.1 2.8zm1.5-1.8zm5.1 4.4zm.7 .7zm-1.8 4.3zm-5.7 .6zm8.9 3.4zm-1.3 2.1zm5.2 1.4zm0 .3zm1.8-.3zm3.8-1.4zm2.6 1.3zm9.6 0zm10-3.2zm3.6 3.8zm-.1-3.5zm-2.5 3.8zm34.8-36.3zm-53.1 51.2zm.3 1.9zm8.2 .9zm-19.9 1.3zm29.4 9.6zm.6 2.7zm-8.7 3.6zm18-.6zm-.2 .8zm-2 1.9zm-32.3-1.7zm-104 37zm-.3-2.6zm1.1 4.1zm-1 .4zm7.5-7.5zm1.5 3.8zm-3.6-2.7zm-15.4 1.7zm-.6 .2zm43.1-3.2zm13.9 6.7zm.4-1.6zm51.1 14.6zm41.6-38.7zm-.1-1zm21.1 .1z"/>
<path class="pt" stroke="#56106b" stroke-width="1.3" d="M543.5 838zm-.7 2.5zm1.8-1.1zm1.9-1.8zm-1 .6zm-2.8 10.2zm-1.9 1.4zm2.9-.7zm-.9 .7zm1.4 6.9zm-1 1.5zm-1.1 11.4zm.5-2.5zm2.5 2.1zm-40.8 24.4zm2.6 .6zm-1.3 1.3zm.3-.5zm58.9-13.4zm-.5-2.5zm13.6 1.5zm.6-.4zm-1.5-3.7zm-2.8 2.2zm4.9-2.3zm1.2 2.8zm-.7-1.1zm5.1-13.7zm2.1-3.1zm-3 3.3zm-1.4-2.8zm9.3-1.2zm-.5 .1zm5.5-2.5zm-1.9 2.9zm-1.1-1.9zm.9-2.3zm9.6 11zm1-1.9zm8-21.5zm1.1 .7zm-2.8 4.1zm1.5-1zm-1.2-1.1zm-2.5-2.9zm3.9 1.3zm-2.6 8zm-.2-.7zm-2.4-1.4zm1.9 5zm7.6 10.9zm-1.2 .4zm-6.5 .7zm1.7-4.7zm6.4 7.7zm-.8 .2zm6.6 2.4zm5.9 .6zm2.9 .6zm-.1 1.9zm-.8-2.1zm-.2 2.7zm9.9-.8zm0-.9zm.5-2.2zm6.1 .7zm3.7-3.8zm3.7 5.3zm.4-.5zm-3.2 .7zm3.3-4.1zm13.7-26.7zm-1.7-1.9zm2 2.7zm-2.5 .8zm16.3-8.7zm3.6-.2zm-.5 2.5zm-.2-3.1zm-.3 3.5zm-.1-4.9zm-2 1.4zm3.4 2.3zm-2.8 1.8zm.8-5.4zm-25.3 45.4zm2.9 2.4zm-2.7 .7zm1.8-.7zm-24.9 9.1zm.5-4.2zm-4.2 .1zm3 4.6zm3.1 2.4zm.6-4.4zm.6 4.5zm-.9-4.3zm-.7 .9zm-18.4 3.6zm.6-3.3zm32.1 11.8zm-1.2-2zm-12.8 6.9zm1.1-1.4zm4.5 2.2zm-4.1 1.1zm16.7 .2zm3.7 1.3zm-1.7-3.8zm-11.1 5.1zm2.9 .4zm-26.5-2.2zm6.7-.8zm.3 1.7zm-.4-1.7zm4.3 4.9zm-.5 .1zm.9 13.4zm-.3-.8zm.5-.9zm-.6 11.2zm-115.7 7.7zm-.4-.1zm.9-1.1zm1.5-2zm4.9-1.9zm.5 5.9zm3.5-3.4zm-18.8 3.4zm55.4 1.3zm.9-1.3zm20.1 7.5zm-.9 2.3zm15.9-12.8zm7.6 1.5zm.2-1.4zm6.4 19.9zm.5-7.1zm-1.1 6.9zm.8-7.7zm-3.5 2.1zm-24-13zm92.5-22.6zm.8-2.5zm-.8 2.3z"/>
<path class="pt" stroke="#6f196d" stroke-width="1.3" d="M542.7 838.9zm4.5 1.2zm-2.1-2.1zm-3.2 30.5zm1.5-.5zm-37.8 26zm60.3-14.2zm13.5-.1zm-1.9-1.9zm6.3-17.8zm-.9 1.9zm2.3-2zm9.5-2.2zm2.3 4.8zm-1.3-3.3zm-1.2 4.4zm-3-4.7zm14.7 11.4zm-2-2.5zm-1.2 .4zm2.5 0zm7.7-24.3zm.2 4.6zm-1.2-2.1zm1.1 2.5zm-2.8-5.3zm2.5 10.4zm-3.3-3.7zm1.7 12.1zm-1.9-1zm2.4-4zm1 .1zm-.4 6.7zm-.4 .4zm6.5 1.2zm-8.3 2zm6.8 8.4zm-.4-3.3zm3.1 2.8zm-1.3-3.3zm-1.8 1.5zm5 0zm9.7 .1zm1.7 2.8zm-3.5 .6zm1.9-5.9zm-2.5 .9zm13.5 .9zm-3.8 2.9zm-1.4-2.5zm11.3-3.1zm2.4 1.5zm-1.6-2.5zm4 1.7zm-1.4 4.8zm-1.8 0zm19.1-31.2zm15.6-4.1zm2.4-.9zm-2.3-3.7zm-20.9 47.3zm-2.5-2.4zm.9 4.2zm-1.4-.2zm1.4-1.2zm-29.2 9.9zm3.9-1.3zm-2.6-3.4zm.5 3.7zm.7 2.2zm.2-2.6zm.4-.7zm1.1-2.5zm2.2 8.8zm-1.9-1.3zm2.4-4.4zm-17.9 2.1zm-.4-1.3zm29.2 12.9zm-10.1 4.2zm-.9-1.6zm1.7-.8zm18.1 6.1zm-1.4-1.1zm2.8 .2zm-13.2 3.5zm3.9 0zm-3 0zm24.1-11.9zm-3.4 .9zm3.2 0zm-47.9 5.3zm1.3 2.2zm-.8-.3zm6.5-1.5zm-.1 1.2zm-109.3 31.8zm-1 .1zm2.6 1.6zm1.2 .3zm1-2.5zm1.9 4.9zm.6-5.2zm-18.9 2.1zm2.7 2.5zm42.1-3.5zm.2 0zm14 3.2zm-.1-.6zm45.5-.9zm4 19.1zm2.7-2.9zm-.3-3.8zm.8 2.1zm-4.9-3zm5.4 3.6zm-4.7 2zm2.7-2.2zm-.8-2.5zm2 2.6zm-7.5 1.1zm-22.1 4.7zm90.4-42.9zm.8-.3zm-.4-3.3zm-.9 1.4z"/>
<path class="pt" stroke="#bc3754" stroke-width="1.3" d="M596.5 861.9zm-3.2-3.7zm18-4.4zm1.5 5.2zm-3.7 6.3zm9.3 7.9zm.2 0zm-.8 2zm2.2-2zm12.4 2zm16.7-3.1zm.3 1.6zm1.5-2.1zm-1.3-.3zm-12.2 20.8zm3.5 2.9zm-3-1.2zm2.9 .7zm18 15.9zm-33.5 1.4zm-104.7 36.7zm2.1-1.5zm7.4-3.8zm-1.8 4.7zm41.7 .6zm49.4 11.7zm-.5-.7zm-1.9 .6zm1.6-.3zm64.9-36.9z"/>
<path class="pt" stroke="#d14744" stroke-width="1.3" d="M594.2 862.3zm-.2-1.2zm.7-1.7zm-.9 1.1zm1-1.3zm16.1-.6zm.9-1.3zm1.1 .9zm3.4 5.9zm7.5 10.8zm-.7 .3zm7.3 .5zm22.3-.9zm-18.2 15.7zm6 5.5zm11.5 9.8zm-128.3 43.1zm.3-3.9zm6.4 2zm-2.5-3.7zm-.2 .2zm26.1-.4zm65.1 18.3z"/>
<path class="pt" stroke="#f0731d" stroke-width="1.3" d="M611.6 858.1zm3.8 7.3zm0-1.7zm-86.1 82.8zm-.5-1.1zm133.9-22.8z"/>
<path class="pt" stroke="#e25b32" stroke-width="1.3" d="M523.1 947.1z"/>
<path class="ct" stroke-width="1.45" stroke="#fff" d="M538.312 835.312V836.688V838.062V839.438V840.812H539.688V842.188H538.312V843.562V844.938V846.312V847.688H536.938V849.062V850.438V851.812V853.188V854.562V855.938V857.312V858.688V860.062V861.438V862.812V864.188H538.312V865.562V866.938V868.312V869.688H539.688V871.062V872.438H541.062V873.812H542.438V875.188H543.812V876.562V877.938H545.188V879.312H546.562H547.938H549.312H550.688H552.062H553.438H554.812V880.688H556.188V882.062H557.562H558.938H560.312H561.688H563.062H564.438V883.438H565.812H567.188H568.562H569.938H571.312H572.688H574.062H575.438V884.812H576.812V886.188H578.188H579.562H580.938H582.312H583.688H585.062H586.438H587.812V887.562V888.938H589.188V890.312H590.562V891.688H591.938V893.062H593.312V894.438H594.688H596.062V895.812V897.188H597.438V898.562V899.938H598.812V901.312V902.688V904.062H600.188V905.438V906.812V908.188V909.562H601.562V910.938V912.312V913.688H600.188V915.062V916.438V917.812H598.812V919.188H597.438V920.562H596.062V921.938H594.688H593.312H591.938V923.312H590.562H589.188H587.812H586.438V924.688H585.062H583.688H582.312H580.938H579.562H578.188H576.812H575.438H574.062V923.312H572.688H571.312H569.938V921.938H568.562H567.188V920.562H565.812V919.188H564.438H563.062H561.688V917.812H560.312H558.938H557.562V916.438H556.188H554.812H553.438H552.062H550.688H549.312V915.062H547.938H546.562V916.438H545.188H543.812H542.438H541.062V917.812H539.688H538.312H536.938H535.562V919.188H534.188H532.812H531.438H530.062H528.688H527.312H525.938V920.562H524.562V919.188H523.188H521.812H520.438H519.062H517.688V917.812H516.312H514.938H513.562V916.438H512.188V915.062H510.812H509.438V913.688V912.312H508.062V910.938V909.562H506.688V908.188V906.812V905.438V904.062V902.688V901.312V899.938H508.062V898.562V897.188H509.438V895.812H510.812V894.438H512.188V893.062H513.562V891.688H514.938H516.312V890.312V888.938V887.562H517.688V886.188V884.812V883.438V882.062V880.688V879.312H516.312V877.938V876.562V875.188H514.938V873.812V872.438V871.062H513.562V869.688H512.188V868.312V866.938H510.812V865.562H509.438H508.062V864.188H506.688H505.312V862.812H503.938H502.562M690.938 894.438H689.562H688.188V895.812V897.188V898.562V899.938V901.312V902.688V904.062V905.438V906.812V908.188V909.562H686.812H685.438V910.938H684.062H682.688H681.312H679.938V912.312H678.562H677.188V913.688H675.812V915.062V916.438H674.438V917.812V919.188V920.562H673.062V921.938V923.312V924.688V926.062H671.688H670.312V927.438H668.938H667.562H666.188V928.812H664.812V930.188V931.562H663.438H662.062V932.938H660.688H659.312H657.938H656.562H655.188V934.312H653.812V935.688V937.062H652.438V938.438H651.062V939.812H649.688H648.312V941.188V942.562V943.938V945.312H646.938V946.688V948.062H645.562V949.438H644.188H642.812V950.812V952.188V953.562V954.938H644.188H645.562H646.938H648.312V956.312V954.938H649.688V953.562H651.062V954.938V956.312H652.438V957.688V959.062V960.438H651.062V961.812H649.688H648.312H646.938V963.188H645.562H644.188H642.812H641.438H640.062V964.562H638.688H637.312V965.938V967.312H635.938V968.688V970.062M615.312 970.062V968.688V967.312V965.938H616.688H618.062H619.438V967.312V968.688V970.062"/>
</g>
<text x="541.4" y="908.1" class="m w">uro</text>
<text x="609.8" y="937.1" class="m w">lp</text>
<text x="672.8" y="953.1" class="m w">msc</text>
<rect x="505.6" y="964.3" width="50.4" height="3.2" fill="#fff"/>
<defs>
<path id="q2l" d="M16.6 282.6zm.3 1zm1.4-.6zm.5-.2zm.6 .8zm.7 .2zm1-.2zm.3-.1zm0 .4zm.3 .2zm.8-.4zm-.2-.4zm.7 .7zm-.3 .6zm-.8 .4zm-.4 .5zm-.3 0zm.6 .6zm.4-.1zm-.3 .7zm.2 .3zm-.3 .6zm-.7-1.2zm-1.2-.2zm-.2-.3zm-.8-.7zm-.4-.3zm.3-.3zm.6 0zm-.4 2.9zm4-1.1zm.3 .6zm.4 .3zm.2 .1zm.3 0zm0-.2zm.4 .4zm.3 .2zm.4-.6zm.2 0zm.3-.6zm.2-.1zm.6-.3zm.5 .2zm-.1 .7zm-.2 .6zm-.5 .2zm-.1 .3zm-.3 0zm-.3 .4zm0 .2zm.5 .2zm0 .3zm.1 .2zm.2 .6zm-1-.8zm-.6-.3zm-.8 .2zm0-.6zm1.1-2.3zm-1.2-.3zm-.1-.2zm-.3 0zm-.4-.3zm.8 0zm.4-.9zm-.6-.4zm.1-1zm.2-.7zm1.2 .1zm.5 .5zm.2-.1zm.6-.1zm0-.3zm.1-.3zm.5 .1zm-.2 .9zm.4 .1zm-.6 .3zm.1 .3zm.4 .4zm.2 .7zm0 .4zm1.2-.6zm.2-.8zm.9-.5zm1 .1zm.5 .1zm.8-.4zm.3 .8zm.1 0zm-.2 .5zm.2 .9zm-1.2-.1zm.4 1.1zm1.8 .7zm.3-.9zm.6-.7zm-.7-.8zm-.4-.9zm.9-.6zm.4 .5zm.2-1.5zm.6-.7zm.6 .4zm1.4-1.3zm-.1-.3zm0-.1zm-.3-.1zm.6-.1zm.2-.2zm.2 .5zm-.1 .2zm.8 .3zm.3 1zm.6 .9zm.4 0zm.3-.2zm-.1 .6zm0 .6zm.1 .5zm1.2-1.3zm1.2 .1zm.6-.3zm.7 0zm.1 .1zm.4-.4zm.1 0zm.5-.4zm.4-.2zm0-.4zm-.7-.4zm-.1-.4zm.4-1zm.4-.4zm.2 .2zm-.7-.6zm-.1 0zm-.4 .2zm0 .3zm-.6 .2zm-.1 .4zm-.2 .1zm-.1 .7zm-.6 .4zm-.6 .2zm-.3-.4zm-.2 .2zm-.2-.1zm-.1 .2zm-.3 .4zm-.7-.2zm-.2-.1zm-.2-.1zm.2-.4zm.2 0zm0-.1zm.3 0zm.4-.5zm.3 .3zm.6 .1zm-.1-.5zm0-.2zm0-.3zm.3 .4zm.3 .2zm-.6-1.1zm0-.4zm-.5-.3zm.3-.6zm.6-.5zm.1 .1zm-.5-.5zm-.1 0zm-.8-.6zm-.5 .5zm-.3 0zm-.7-.1zm-.2 .6zm-.6 .5zm.8 1.1zm0 .2zm.2 .1zm.2-.2zm.1-.1zm.3 .6zm0 .2zm.2-.3zm.5 .1zm-.6 .6zm-.3 0zm-.4 .3zm-.1 .1zm-.3-.9zm-.9-.1zm-1.3-.2zm-.6-.9zm-.6 .2zm-.5 .2zm.6-1.3zm-.6-.4zm-.6-.2zm-.5 .3zm-.1-.6zm-.5 .3zm-.4-.5zm-.4 .5zm-.5-.2zm-.3 .1zm0 .3zm-.9-.4zm-1.7 .4zm.1-1.3zm-1.2 .1zm-.1-.5zm-.4-.8zm-.5-.2zm.2-.5zm-.8 .2zm-.6-.5zm-.9-.3zm0 .8zm-.2 .3zm0 .3zm-.7 .5zm-.7 0zm.1-.4zm-.5 .2zm-.3 .3zm.2 .7zm.7-.1zm-.1 .5zm1.2-.7zm.1-.1zm.2 .8zm.6-.3zm.2 .7zm1.3-1.4zm1.4-1.4zm-.4-.5zm.5-1.3zm-1-.3zm-1.4 .6zm3.3 1.1zm1.5 1.2zm.4-.4zm.8-.7zm.3-.9zm.3-.7zm.5 .9zm.3 0zm0 .3zm0 .4zm-.5-.3zm-.4 1.2zm.8 .1zm.7 .3zm.2-.1zm.2-.2zm-.3 .5zm.2 .4zm.5 .2zm.5-.1zm0-2zm.2-.6zm.9 .1zm1.2 .4zm.1-.4zm.6-1.4zm-.3-.4zm.5-.8zm.6-.7zm.6 .1zm.3 .2zm.4 .8zm1.5-.4zm.1-.1zm.6 .2zm.4 .1zm-.4-.7zm-.1-.5zm1.7 1.4zm1.4 0zm.9 .3zm.6-.2zm.4 .8zm.8-.5zm.3 .1zm1-.4zm.7 .8zm.6 .4zm.2 .3zm1.1-.6zm.2-.6zm.6 .1zm.5 1.5zm-.3 .2zm-.5 .2zm-.1-.3zm1.3 .6zm-.4 .9zm1.2 .5zm.7-.7zm-.4-.6zm-.1-.2zm1.5-.1zm.7 .4zm1.2-.1zm.5-.6zm-.3-.8zm-1-.3zm-1.5-.6zm.9-1.1zm.1-.6zm0-.5zm.7 .3zm2-.6zm.3-1.6zm2 1.2zm.1 1zm-.1 .2zm-.4 .4zm.3 .4zm.7 0zm.4 .1zm.3 0zm.7-.4zm.2-.3zm-1.1-.3zm-1.1 2zm-.9-.1zm-.4 .2zm-.4 .4zm.2 .4zm0 .4zm.8 .1zm.1 .1zm-.1 .1zm1.4-.1zm.2-1.2zm1.8-.4zm.2-.2zm.5 .9zm-.3 1.1zm.8 .5zm.5-.2zm.1 .5zm.7 .2zm.2-.1zm.4 .4zm.1-.1zm.3-.1zm.9 .2zm-.4 .6zm1 0zm.2 .1zm-.3 .4zm.2 .1zm.8 .3zm.5-.7zm.3-.7zm-.5-.3zm-.1-.2zm.3 0zm.5-.3zm-.1-.2zm1-.1zm.4-.2zm.7-.5zm.5-.5zm0-.5zm.8-.1zm0 .5zm-.2 1.1zm-.4 .6zm-1.1 .3zm-.5 1.2zm0 .1zm-.7 .8zm1.1 1.3zm-.1 .8zm-.6 .6zm-.3 .4zm-.2 .2zm.2 .5zm.2 0zm.7-.1zm.5 .2zm-.2 .3zm.3 .5zm0 .1zm-.3 .2zm-.1-.1zm-.7-.3zm-.3 .1zm-.4 0zm-.6-.3zm.4 1zm0 .8zm-.3 .8zm0 .2zm-.2-.2zm.1 .5zm-.2 .3zm-.1 .4zm-.6-.2zm-.6-.3zm0-.6zm.4-.1zm.2-.1zm.1-.2zm-.5-.3zm-.3-.6zm0-.7zm-.5-.5zm-.7 .3zm-.9-.3zm-.1 .4zm-.1-.8zm-.9 .2zm-1.1 .8zm-.4 .4zm-.3-.5zm-.7-.4zm-.7 0zm-.3-.5zm-.5-.3zm-.6 .3zm-.2-.8zm-.1-.5zm-.6-.2zm-.1-.1zm.1-.6zm1.2 .3zm.5 .7zm.1 0zm1.1-.9zm-.5-.8zm-1-.4zm-.1-1.2zm-1 .2zm-.4-.2zm.7-.8zm.8-.3zm-.1-.7zm.5 .1zm1.5 1.3zm-.5 .7zm.6 .6zm1 .6zm.3 .3zm.4 .3zm.2-.1zm.8 0zm.4-.4zm.6-.1zm.4-.4zm.8-.4zm-.3-.5zm1.3 .6zm.3 .6zm0 1.9zm-.5 .9zm-.7-1.2zm-.7 .1zm-.5 0zm-1.3-.5zm-.1 .2zm-1.7 1.3zm-.1 .1zm-.1 .3zm-.2-.6zm-.3-.6zm1.1-2.9zm1.4-.7zm.3-.3zm.4 1.1zm0-3zm.4-1.4zm.2-.4zm.7-.5zm-.1-1.2zm-.6-.1zm.2-.8zm-.1-.3zm.1-.3zm-.4 0zm-.2-.7zm-.7 1zm.2 .8zm-.2 .8zm.1 .6zm-.6-.2zm-.5-.5zm.3-.6zm.4 2.1zm3 1zm0 .5zm.2-1.4zm1.2-.8zm.3 .2zm.5-.9zm0-1.6zm-1.3-1.2zm.4-1zm-.3-1.2zm0-.4zm-.4 .3zm-.1-.9zm.1-.4zm-.5-.5zm.9-.3zm.1-.1zm.9 .6zm.9-.4zm.5-.8zm.6-1zm.6-.2zm-.4-1zm-.3-.3zm0-.1zm.3-.1zm-.8 .1zm-.7-.3zm-.4-.7zm.5-.7zm-.1-.3zm.4 .6zm.1 .2zm.9-1.5zm.4 .1zm.1 .3zm-.3-.9zm-.7-.1zm-1.3 .1zm-.1-.9zm.3-.7zm1.1 0zm.4-1.7zm1.1 .8zm-1.7-2.1zm-2 .1zm-.8-.4zm.8 1.5zm-.8 .7zm.9 .6zm-.8 1.1zm0 .9zm-.5-.1zm-.4 .4zm-.4 .3zm-.4-.3zm-.3 0zm-.1 0zm-1-.5zm1.1-1.1zm1.1 0zm.9 2zm-.4 1.2zm-.7 .6zm-.3 .8zm.4 1.5zm-.6 .6zm0 2.3zm.4 2.1zm.2 .8zm0 1.2zm3.1-2.5zm.9-.3zm.8 .3zm.8 .4zm.8 .9zm.1 .2zm.8-1zm0-1.1zm-.5-.8zm.2-.3zm.1-.5zm-.8-.1zm0-.2zm-.4-.4zm.5-.5zm0-1.2zm.4-1zm-.9-.2zm.9-2.3zm1.8 2.3zm-.2 .7zm0 .4zm.9-.7zm.7-.4zm0 1.6zm.1 1.7zm-.6 .5zm-.4-.6zm-.6 .2zm-.7-.3zm.2 1.3zm.4 1.1zm.7 .6zm-.6 .4zm1.5 1.3zm-.2 1zm-.1 .4zm-.3 .1zm-.1 .4zm-.7-.3zm-.2 .2zm-.4 1.1zm.4 1zm-.2 .2zm-.2 .2zm.1 .1zm-1.1-.1zm-.3-.1zm.2-.3zm.1-.1zm-.1 2.8zm-.2 .1zm1.1 1.1zm-.6 .9zm-.7 1.3zm-.5 1.1zm-.5 .2zm-.9-.2zm.1 .9zm.4 .2zm-.4 .4zm-.1 .7zm.5 .3zm-.4 .3zm.6 .2zm.3-.4zm.9 .4zm1 0zm.3 .6zm.2 .1zm.7 .1zm.1-.4zm-.3-.6zm.9 .1zm1.3 .3zm.8-1.2zm-.4-.8zm.5-.4zm.4-.4zm.9 .2zm.2-.2zm.3 .2zm-.3 .2zm-.3 .4zm-.2 1.2zm-.2 0zm.3 .5zm0 .3zm.6-.8zm.3 .2zm1 .9zm-.3 .3zm-1.1 .4zm-.9 .2zm-.4 .4zm-.6 .6zm-.3-.1zm.3 .5zm-.4 .8zm-.1 0zm.4 .1zm-.7 .2zm-.4-.5zm.1-.1zm.2-.3zm0-.9zm-1.4 .1zm0-.6zm.1-.2zm-1.4 .5zm-1 1zm-.4 .2zm.5 .6zm.5-.4zm.9 .2zm1.4 .5zm-.2 .6zm-.3 .4zm-1 1.1zm.2 .3zm-.6 0zm0-.2zm0-.3zm-.5 .1zm-.5-.3zm-.3-.3zm-.1-.3zm-.1 0zm-.2-.5zm-.6 0zm-.1 0zm-.4 .2zm-.1-.3zm-.7-.1zm-.2 .4zm0 .6zm-.2 .3zm.3 .9zm.1 .6zm-.3 .1zm-.2 .9zm.7 .5zm.4-.6zm.3-.2zm.3 .2zm1 .8zm.9-.2zm.2 .4zm-.7 .9zm.7 .3zm.1 .6zm.2 .2zm-.2 .7zm.5 .1zm.6-.3zm.7-.5zm-1-.5zm.4-1.1zm0-.2zm-.2-1.3zm.6-.6zm-.2-.2zm.3-.1zm0-.6zm.3 1.3zm.3 .3zm-.1 .3zm.7 .2zm.7-.1zm.1 .5zm-.1 .6zm0 .2zm-.5 1.2zm1.3 .4zm1.1-1.3zm.7-.9zm.3-.1zm.1-.8zm.2-1.1zm-.1-.4zm-1.2 .5zm-.2-.3zm-.2 .4zm0 .6zm.2 .1zm-.3 .2zm-.1-.1zm-.4 .1zm.4 .5zm-1-1.1zm-.1-.5zm-.2-.9zm0-.7zm-.2-.1zm-.1 0zm1 0zm0 .1zm.5-.6zm.5 0zm.3 0zm.4 .6zm1.5-.2zm.3 .4zm.6 1zm.7 1.3zm.4 .9zm.8-.1zm.1 .1zm.1-.8zm-.5-.8zm1.6 0zm.6 .1zm0-.7zm.6-.3zm.2-.7zm.2 0zm.2-.1zm0-.2zm.1 0zm-.1-.2zm.5 0zm.1 .4zm.5 .3zm.5 .4zm-1.3-.1zm0 .3zm.7 1zm.8 .2zm-.3 .6zm1.4-.4zm.4-1.1zm-.2-.1zm-.1-.1zm.1-.1zm.6-1.2zm0-.6zm.8-.2zm-.1-.4zm-.3-.5zm.3-.4zm.1-.3zm.8-.5zm-.3-.6zm-.5-.8zm-.4-.3zm.4-.3zm-.6 .8zm-.4 .6zm-.8 .4zm-.3 0zm.1-.4zm-.7-.1zm-.3-.2zm0-.1zm-.2-.3zm-.4-.9zm-1-.1zm-.3-.3zm-.2 .1zm-.5-.7zm-.6-.1zm-.6-.4zm.4-.4zm-.3-.4zm.3-.5zm.1-.7zm-.2-.9zm-.2-.9zm.7 .1zm.3-.7zm1.3 1.2zm.7-.7zm.2-.2zm.3-.6zm.9 .6zm-.1 .3zm.8-.4zm.4 .7zm.5 1.1zm.1 0zm-.4 1.2zm-.3 .7zm.9 .3zm.5 .9zm1.6 .8zm.3 .3zm.5 .6zm.4-.5zm.8 1zm.9 .5zm1.1-1zm1.4-.3zm0 .9zm.7-.1zm.2 .5zm.4 .2zm-.9 0zm-.3 1.1zm-.2 0zm0 .1zm-1.1 0zm-.4 1.3zm-.1 .1zm-.6 .1zm-.5-.7zm-1.2 .2zm-1.2 .3zm-1.1-.5zm.1-.9zm.9-.8zm-.7 3.2zm.4 .6zm1.1-.3zm.3 2zm.5 .4zm-.5 .7zm-.1 .5zm.4 .2zm.8 1.2zm-.3 .3zm-.9-.1zm-.7-.2zm-.3-.3zm-.3 .5zm-.2 .2zm-.4-.2zm-.4 .4zm.4 .3zm.1 .4zm-1-.3zm-.1-.5zm-1.3-.3zm.4-1.1zm-.1-1.1zm-1.5 1zm-.9-.3zm-.1 .4zm-.1 .4zm-.3-.2zm-.3-.2zm-.4 .3zm-.8-.1zm-1.2 .3zm-.1 1.1zm.1 1zm-.2 .3zm-.2 .5zm-.3 0zm.4 .3zm0 .4zm.5 .1zm.6-.2zm.4 0zm.1 .8zm.8-.1zm.2-.3zm-.1-.2zm.8 .3zm.2-.3zm.4-.2zm0-.4zm0-.4zm.1-.2zm.4-.4zm.2-.6zm.8 .8zm.8 .3zm-.8 .7zm0 .1zm.4 .2zm.5 .2zm-.2 .3zm.1 .5zm.4 1zm.5-.4zm.4 .9zm0 .5zm-.1 .1zm-.3 .3zm0 .2zm-.7-.3zm-.8-.5zm-.3 .1zm-.8-.1zm-.7-.2zm-.1 .4zm.6 .6zm.3 1zm1.1-.4zm1.1 1.7zm-.5 .8zm.9 .7zm.8-.4zm.1-.2zm-.4-.3zm.7-.4zm.2 .9zm.2 .8zm.6-.3zm.7-1.2zm-.6-.6zm.7-1zm-.6-.3zm-.8-.1zm-.3 .5zm-.6 .1zm0 .1zm0-.9zm-.1-.1zm.6-.4zm1.2-.1zm1-.1zm.4 .6zm1.1 .4zm.6-1.1zm.3-.3zm0-.1zm.4 0zm-.1 .5zm.1 .3zm-.5-1.3zm-.3 0zm.7-.2zm.5-.3zm0-1.9zm.7 0zm.2 .2zm1.2-.2zm.1 .1zm.5-.4zm.6-.2zm-.4-.8zm-.6-.2zm-.3-.7zm-.2-.5zm.1-.2zm.9 .6zm.7 .3zm.7 1.2zm.2-.1zm-.3 1.2zm-.2 .7zm.7 .3zm.7-.2zm.4 .2zm-.2 .4zm.1 .4zm.8 .1zm.5 .4zm.6-.2zm.3 .2zm0 .3zm0 .5zm.3 .6zm1 .4zm.3-.5zm-.1-.5zm-.1-.7zm-.8 .1zm-1.4 1.1zm-.5 0zm-.4-.5zm-.7 .3zm-.8 1zm-.8-.8zm-.3 0zm.6-1.4zm0-.3zm-1.7 .6zm-.8 .5zm.8-2zm.4-.9zm.3 0zm2.2-.2zm1.1 .6zm-.1 .4zm1.3-.3zm0-.2zm1.3-.5zm.5-.6zm-.1-1zm.4 0zm.2-1zm-1-.1zm-.3-.1zm-.4 .2zm-.4-.5zm-.5 .2zm-.2 0zm-.5 .8zm-.5 0zm0-1.1zm-.2-.1zm.7-.6zm.6-.3zm-.3-.4zm-.4-.8zm.2-.3zm.4-.3zm.6-.4zm.8 .3zm-.1-.9zm-.4-.4zm.4-.7zm-.2-.4zm-.1-.3zm-.2-.5zm0-.5zm-.9-.1zm-.8 1.1zm-.1 .3zm.7 0zm.1 .3zm0 .9zm-.6-.1zm-.5 .5zm.2 .5zm-.9 .3zm-.6-.5zm.4-.8zm.4-.7zm-.4-1zm.2-.3zm.2-.4zm.1 0zm-.1-.6zm-.6-.9zm-.8 .4zm-.8-.4zm-.3-1zm-.2-.4zm-.5-.5zm-.5-.9zm-.1-.2zm-.5 0zm.2-.5zm.1-.6zm-1 .8zm-.5-.4zm-.8-.8zm-.2-.4zm0-.6zm-.7 0zm.2-1.1zm.1-1.9zm.2-.3zm.8-.7zm.9 1.5zm1.9 1.2zm-.6 .9zm1 1.5zm-.1 .8zm.9 .8zm.1 .3zm.3-.7zm.3-.4zm.4-.6zm.4 0zm.1 .1zm0-.7zm.3-.7zm.2 .1zm.5 .5zm-.2 .8zm-1 .7zm0 .5zm.8 .3zm.7 0zm-.3 1.3zm-.6 0zm-.2-.4zm1.8 .3zm.7 .8zm1.9 .8zm.6-.5zm-.5-.8zm.7-.3zm0-1.2zm.5-1.1zm-.8-.4zm.4-1.3zm-.7-.3zm.6-.5zm.8 0zm-1.6-.4zm-1.1-.1zm-.6-.6zm-.3-.5zm.7-.3zm-1.5 .4zm-.1 .2zm.2 .1zm-.3-.5zm-.2 0zm.1-.6zm.1-.6zm.4 .1zm.2-1.5zm.6-.1zm1.2 .3zm.1 0zm.4 .1zm.1-1zm-.4-.6zm.7-.2zm.5 .2zm.1 .3zm0 .6zm-.1 0zm.5 .2zm-.1 .6zm.6-1zm.3-.3zm.9-.4zm1.2-.8zm1.3-.5zm.4 .4zm.3-.2zm1.1 .1zm.5 .8zm.3 .6zm.5 .6zm1 0zm.1 .3zm.5-.2zm.2-.1zm.3-.8zm-.7-.7zm.5-.9zm.4 0zm1.8 .2zm0 .3zm-.4 .8zm0 .9zm-.8 .1zm.2 1.1zm-.5 .3zm-.9-.3zm-.3 1.2zm-1-.5zm-.1 .3zm-.4-.3zm0 0zm-1.5 .8zm-.3-.6zm-.3-1.1zm.5-.8zm-1.4 .2zm-2.4 1.6zm.7 2.1zm.3 0zm.1-.1zm1.4-.6zm.8 1.5zm1.1 .2zm.1 .7zm.8-.2zm-.8-1.3zm-2.3 2.1zm-1.2-.3zm-.6 0zm0-.2zm-.6 1.9zm-.3 .1zm.4 .6zm-.3 .6zm-.3 0zm.6 1.7zm.3 0zm.1 .1zm.8 .1zm.1-.3zm.4-.7zm.3-.1zm.3-.4zm-.7-.3zm-.1-1.2zm1.1 .2zm.7-.4zm-.1 1.1zm.6 .2zm.8 .9zm.7 .5zm1.3-.5zm-.5-.9zm1.4 0zm-.1 1.6zm.3 0zm.5 .2zm.8 0zm-.3 .7zm.1 .1zm.8-.1zm-1.3 .8zm1.1 1.2zm.4 1zm.6 .2zm-.5 .9zm-.2 .4zm.9 .9zm1.1 .7zm.6-.1zm-.4 1.1zm-.7 .2zm-1.1 1.7zm-.4 0zm-.6 .3zm-.2 0zm.1 .9zm1.2 .9zm1.5-.3zm-.3-1zm1.5 1.1zm.3 1.1zm.2 .3zm.3-.2zm.9 .4zm.3 .1zm0 .2zm-.7 .3zm0 .6zm1.4 1.3zm-.7 .6zm-.7 .1zm-.9 0zm-1 1.2zm-.1 1.5zm3.3 .3zm1.6-5.2zm-.9-1zm-1.3-1.4zm.7-1.8zm.2-1.8zm.1-.1zm-.1-1.2zm0-.8zm.8 0zm.8-.7zm.4-.1zm1.4 1.4zm-.9 .6zm-.3 1.1zm-.2 .5zm1.8 .3zm.5 0zm-.1 .4zm.9-.3zm1-.1zm.6 .8zm1-.5zm.6-.6zm.8 .5zm1.3 .8zm1 1.2zm1.9-.3zm.4 1.4zm1.8-2zm.5-.2zm-.3-.6zm.2-.6zm-.8-.8zm-.6-.3zm-.1-.8zm.6-.5zm.2-.8zm1 .1zm.1 .1zm.7-1.2zm-.1-.7zm1.1 .5zm.2-.1zm0-1.9zm-.3-.1zm1.4 0zm1.4-2.1zm.2-.6zm1.8 3.1zm-4.5 4.3zm-1.2 1.1zm-.2 2.1zm-3.9-1.8zm-.9-.5zm.8-.6zm-.9-.8zm.5-1.2zm-.7-.5zm.5-.7zm.2-.2zm1 .4zm.1-1.8zm-.5-1.1zm-.6-1.1zm-1.2 1.8zm.1 1.5zm-.1 .2zm-.1 0zm-1.3-.1zm-.1 .5zm-1.1-1zm-.5 .6zm-.7 .5zm-.8-.5zm-.4 .2zm-.1 .8zm.3-1.6zm-.6-.1zm-.2 0zm1-1.2zm.9 .5zm-.3 .7zm-.1-2.4zm-2 .1zm-2.9 .9zm-.6 .4zm.5 .5zm-.7 .4zm-2.2 0zm-.5-.8zm-.1-.1zm-.2 .2zm-.3-.8zm-1 .2zm.1 .4zm-1.3 1zm1.4 .7zm-.1 1.1zm1.4-.2zm-.2 3.2zm3.1 3.1zm2.4 .6zm.4-1zm1.4 1.9zm1.1-.1zm.5-4.2zm-.1-.4zm1.2-.6zm2-.6zm0-.6zm.3-.6zm-1.6-5.1zm.8-1.7zm-1.5-.5zm-1.5 0zm1.7-2.1zm1 .8zm2-1.4zm-.3-.5zm.5-.1zm-.2-.5zm.8 .4zm.5 .8zm.4 .1zm.8 1.5zm1.9 .8zm.3 2.3zm.1 1zm-4.5-3.1zm.4-4.8zm.5 0zm.2-.5zm-1.6-.3zm.8-1.4zm1.1-.2zm.3-.5zm-1.4-.7zm.1-1.9zm.2-.1zm-.4-.8zm-1.2-.2zm-1.2-.9zm-1.2-.1zm.2-1.9zm.7-.1zm.3 .2zm0-1.2zm0-.8zm.2-.7zm.3 .1zm.8-.7zm-.1-.4zm-.2 0zm-.7-.6zm.3-.5zm-1.5 .6zm-.1-.3zm.2 .9zm-.1 1.1zm-.7 0zm-.3-1.5zm-2 .4zm-.1-.5zm.6 1.7zm-.5 .3zm-.3 .4zm.2 .1zm.9-.2zm.7 1.2zm-1.6 .5zm-.7-.4zm0-.2zm-.1-.1zm-.2 0zm-.2 .3zm0 .8zm-.5 .3zm-.2 .7zm.1 .3zm1.7-.7zm.7 .7zm.1 .4zm.9 1.7zm.2 .1zm-.3 .5zm-.6 .1zm-.3-.1zm.1 .6zm-.2 1.6zm.9 .2zm.1 .7zm.3 .6zm.4 .8zm.5-.3zm1.3 .6zm-1.7 1.2zm-.8 0zm-.1 .2zm-1.1 .1zm-.3-.6zm.1-.5zm-1.3 .2zm-.6-.7zm1-1zm-.6-1.4zm0-.2zm-.6-1.2zm0-.6zm0-.4zm-.5-.5zm-.2 .1zm-.4 .1zm0 .7zm-.5 .4zm-.7 .5zm.6 .6zm0 1.1zm-.3 .2zm-.3 2zm-.8 .9zm.7 1.9zm.7 .2zm.8-1.6zm.6 .2zm.2-.1zm1 0zm.6 .6zm.2-.3zm-.9 .8zm-.9 1.9zm-.8 .4zm-3.4-1zm-.2-.3zm.1-.5zm-1.5-2zm0-.8zm.5-.9zm.1-.4zm-.8-.3zm-.9 0zm.6-1.6zm2-1.1zm.6 0zm0 .5zm-1-1.3zm.2-.6zm-1.2-1.1zm-2.6 .6zm0 .2zm-.5-.4zm-.4-1.6zm-.3-.4zm-.1 .1zm-.2-.3zm-1-.1zm2-2.1zm1.3 .7zm.4 .6zm.3-.1zm.3-1.2zm.7-1zm.3 .1zm.3 .1zm.9 .4zm.9 .7zm-.8 .5zm0 .6zm1 0zm1.1 1.8zm.1 1.3zm-2.2 4.7zm-3.9 1.6zm-1.2-.1zm-.6 .2zm0-.6zm-.1-.4zm1.2-.5zm-2.1-1zm-.4 3.2zm1 .2zm.8 .5zm-.3 1.1zm1.7-.9zm0 2.7zm.6 .5zm.4 .1zm1.4 0zm.2 .5zm.5 1zm-3.5-.9zm-1.4-.9zm-2.7 1.7zm-1.1 1.4zm-.1 .2zm.3 .7zm0 .1zm0 .7zm-.8 .2zm-.6-.8zm-.4 .2zm-.2-.1zm-.7-.7zm-.1-.1zm-.2-.3zm.7-.3zm.2-.6zm0-.2zm-1.7-1.2zm-1.5 2zm.2 1zm-.4 .4zm1-.4zm.9 .1zm-.3 1.8zm0 .4zm0 .3zm-1.2 0zm.6 1.1zm-.9 .7zm1.3 1zm0 .7zm-.8 1zm-.8-.5zm-.6 .5zm.3 .5zm-1.6 .6zm-.1 .8zm.8 .4zm.5 .8zm.6 .1zm-1.4 .4zm-.8-.4zm-.2-.4zm-.1 .8zm-.8-1zm-1.5-1.7zm.7-.5zm-.4-.4zm-.5-.2zm-.3 .2zm.3-1.9zm.2 0zm.1-.8zm-2-.2zm-1.9-.7zm-1.5-.7zm-.5 .2zm-.3 .4zm0 .5zm-.6-.2zm-.2-.3zm-.6-.3zm.3-.3zm-.6-.1zm1.3-.2zm.6-1.4zm.1-.4zm.4 .6zm.5-.3zm1.1-.4zm.3-.6zm-.3-1.1zm-.6 .4zm-1.7-.9zm-1 1.3zm-.5 1.1zm-2.4-.1zm1.1 2.8zm1.4 1.9zm-2.7 .9zm-.9 .6zm.4 .8zm-.5 .5zm-.1 .4zm.1 .3zm-.2 .7zm0 .2zm.5-.1zm1.2-.7zm.3 .3zm-1.6 2zm.1 .1zm-.4-.1zm-.7-.4zm0-.1zm-.4 .1zm-.7-.2zm.6-.6zm.2-1zm.2-1zm0-.4zm-1.5 .3zm-.5 .8zm-.4 .4zm-.1-.1zm.9 .3zm-3.2-.5zm-.2 .1zm-.6 .3zm.1 .4zm.5 .6zm.3 .4zm-1.6 .2zm-.9-.7zm.6-.4zm-1.3 1.5zm-.4 .2zm-.2-.1zm1.2 .5zm-.2 2.9zm-.8 .4zm-.5 .3zm-.4 .1zm.1 .5zm-1.2 .4zm-.9 .2zm1.1 .9zm.7 0zm1.1-.5zm.4 1zm.8 .5zm.1 .9zm0 1.1zm2.4 0zm2.9-1.2zm.5-1.4zm.5 .3zm.6-.2zm.4 0zm0-.1zm-.1-.3zm.3-.1zm1.2-.3zm.9 .8zm.9-.2zm-.5-2zm-.8-.8zm2.1-.3zm.7-.7zm1 1.1zm.7-.9zm-1.3 2.5zm2.8 .4zm1.3 .2zm.7 0zm0-.5zm.9 .6zm.2-.4zm2.8-1.1zm-1.2-1.7zm3.1-2.5zm0-.2zm1 .2zm0 .2zm.2-.1zm.5 .3zm.5 .6zm.4-1.2zm-.2-.8zm-.2-2.2zm1.1-.5zm1.2 .2zm1.2 1.3zm2.1-.5zm-.2-.8zm.3-.7zm1.3-.9zm0-1.1zm-.7-.3zm1.2-.8zm-.6-1.8zm.2-1zm-.3-.1zm-.5 0zm.9-.5zm-1.8-.3zm-1.1 1.8zm.5 .3zm-.4 1.1zm-.7 .8zm-.7-.7zm-.7 0zm-.1 .8zm.3 .6zm.2 .4zm-.5 .3zm1.1 .1zm.2 0zm.4-.3zm.1 .5zm-2.6-1.2zm-.3-.4zm.2-1.2zm.6-.5zm.1 .1zm1.2-.2zm0-.8zm-5.2 .2zm-.1-.2zm-.1-.2zm-.7 1zm-.4 .1zm-.5 .5zm.4 .7zm-.8-1.7zm.3-.3zm.1-.7zm-1 .3zm-.2-.8zm.2-.4zm1.6-.6zm.5-.2zm0 .5zm-.8-1.5zm-2.1-6.1zm.2-1zm-1-.8zm-1.5-.1zm-.4-.9zm-.2-.1zm-.3 .5zm-.3-.5zm.2-.8zm0-.6zm-.2 0zm.6-.4zm-.7-.9zm-.7-.1zm-1.2-.7zm-.4-.2zm-.6-.2zm-.4 0zm.2-.8zm-.4-.9zm-.5 .4zm-.7-.4zm.2-.4zm.4-.3zm-.3-.5zm-.1 0zm.2-.1zm.3 0zm-.4-1zm-.8-.2zm-.4-.7zm-.4-.4zm-.1-.5zm.8-1.1zm-.9-1.2zm-.5-.2zm-.3 .4zm-.1 .2zm-.1 .3zm0-1.5zm.6-.6zm-.3-.2zm-.2-.2zm-.5 0zm-.2 0zm1.2-.8zm-.3-.4zm.9 .3zm.4 .1zm.1-.2zm.5 .3zm-.5 .5zm-.2 .1zm.5 .1zm.1 .5zm-.5 .6zm1.2-1zm.5-1.4zm.2-.4zm.3 .5zm.2 .2zm.3 .9zm1-.2zm.6-.5zm-.7 1.6zm-.2 .3zm0 .6zm.2 .9zm.4 .6zm-.2 .2zm1.3 0zm.4 .2zm.1 0zm.2 0zm.4-.1zm.7-.3zm.2-.9zm.5-.1zm.1-.4zm-.1-.3zm.5-.5zm.4-.5zm.1-.2zm1.3-.2zm.8 0zm0 .3zm.2-.7zm-.1-.1zm-.2-.1zm.3-.9zm-.1-.3zm.6 .6zm-1.9-.3zm-1-.3zm0-.3zm.2-.6zm.3-.4zm.4 0zm.1-.4zm.3 0zm0 .2zm1.1 0zm.6-.8zm.2-.1zm.3 .6zm-3.4 .2zm-1.1 2.1zm-.3 .2zm-.8-.2zm-.3 1.2zm-.8 1.3zm.3 .2zm-.2 .6zm-.2 .5zm-.1 .1zm.6-.1zm.2-.2zm.6-.4zm.1-.3zm.3 0zm1.1 1.6zm.1 .1zm.2 0zm.4-.1zm.1-.1zm0 .3zm.2 .6zm-.9 .6zm-.1 .3zm-.2-.8zm.3 2zm-.5 .9zm-.1 1.1zm-.5 .4zm-.7-.3zm-.1 .6zm-.3 .6zm-.5-.5zm-.5 .6zm-.9 .2zm.3-2.1zm-.4-.4zm-.5-.2zm.1-.6zm-.8 .5zm-2.2 .6zm-.7-1.3zm-1.2 1.4zm1.3 1.3zm-2.1 .7zm-.3 .8zm.3 .7zm.1 .5zm-1.1-.1zm-.7-.3zm0-.9zm.1-.4zm-.9 .4zm-1.3 1.1zm1.3 .8zm.6 1.7zm.2 .8zm-1.1 .4zm.7 .9zm1.2 .6zm.8 .2zm.5-.1zm-1.1-2.7zm-2.4 0zm-2.7-2.5zm-2.2-.1zm.4-2zm.2-.7zm1.3-.1zm.3 .6zm-.3 .1zm.5-1.8zm.2-1zm.6-.1zm-.2-.6zm-1.1 .3zm-.9 1.1zm-.6 .1zm-.6 0zm-.8-.1zm-1.4-1.1zm-.9-1.7zm-.6 .4zm-.4 0zm-1.4 1.5zm-.2 .1zm-.4 .7zm-.4-.5zm0 1.3zm1.1-.2zm.7 0zm-.8 1.7zm-1.1-.1zm-1 .7zm-.1 .2zm-.2-.2zm.3 .7zm-.7 .6zm-.2-.1zm-.4-.2zm.2-.9zm-.6-.6zm-.8 .3zm-.1-.2zm-.2-.2zm-.2-.4zm-.2-.3zm.7 .1zm.1 .2zm.4-.5zm.1-.4zm-.2-.2zm.4-.1zm.3 .4zm-.2 .2zm-.8-1zm-.5 .4zm-.2-.8zm-.1-.4zm.1-.3zm.6-.6zm0-.5zm.5-.5zm-.1-.4zm1.6 .9zm.5-1.1zm.3-.2zm1.3-.5zm.1-.2zm-2-1.1zm.1-.5zm.5-.5zm-1.1-.2zm.7-.9zm-.2-.6zm.2-.2zm.8 .5zm0 .3zm1.1-1.1zm.7 .1zm.4-.3zm-.3-.6zm-.4-1zm0-.4zm.8-.9zm.6-.7zm.3-.3zm.2 .4zm-.1 .1zm.2 .7zm.8 .2zm.6-.8zm.5-.2zm0-.3zm-1-.3zm-.1-.1zm.4-.5zm-.2-.5zm.5-.1zm-.3-.9zm-1.2 .4zm-.2 .5zm-.3-.1zm-.2 0zm-.4 .5zm-.5-.3zm.8-.9zm.3-.4zm-1.6 .2zm-.7-.1zm-.2-.3zm-.1 1.8zm-.4 .9zm.2 .1zm-.9-.6zm0-.7zm-.9 1zm.2 .3zm.1 .9zm-.1 .6zm-.4 .4zm-.5 1.2zm2.1 .1zm2.2 2.1zm.5 .9zm1.1-1.1zm.1-.1zm-.5-.5zm-.1-.6zm.4-1.3zm0-.5zm.8 .5zm.5 .4zm.1 .2zm0 .7zm.8-.7zm.3 .1zm.2-1zm-.8-.4zm1-1.3zm.3-.7zm.4-.3zm.1-.6zm.4 0zm.1-.6zm.7 .2zm.4 .3zm.4-.4zm.7-.4zm.8 .3zm.1 .3zm.6 .1zm-.1 .3zm.7-.8zm.5 0zm.2 .9zm0 .7zm-.2 .3zm-.2 .5zm-.8-.1zm-.4 .2zm-.4 .3zm-1.1-1zm-.7 .4zm-1.1-.1zm-.2 .2zm-.9-1.5zm-.3-.3zm.1-.5zm.5-.8zm.8-.8zm1 1zm.2-.1zm1.8-.4zm1-.9zm1.6-1.4zm.5-.2zm-.4-.5zm-.6 0zm1.1-1.3zm-.8-.4zm-.5-.7zm0-.2zm-.1-.2zm.9-.2zm.4-1.1zm-1-.1zm.3-.7zm-.5-.8zm-.7 .5zm-.4 .2zm-.5 .5zm-.6 0zm-1.2-.6zm-1.8 .1zm4.2 1.8zm.4-.4zm2.7 1.6zm.6-2.4zm.8-.9zm0-.2zm.7 .1zm.3 .1zm.1-.9zm-.7-.5zm-1.1 .5zm1.2-1.8zm1.7-.8zm2.3 .1zm1.1-1.4zm.4 .1zm-1.8-.6zm1.9-1.6zm.4-.2zm.8-.8zm.4-.9zm.5 .5zm.7-.1zm.3 0zm.4-.8zm0-.4zm.3-.1zm-.4-.8zm-.5 .3zm-.3 .2zm-.5 .4zm-.2-.3zm-.2-.1zm-.2-.4zm.1-.9zm1.7 .2zm1.6 .6zm.5-1.5zm0-1.6zm-.2-.5zm0-.5zm.5 .2zm-.4-.8zm-1.3-1.2zm-2.4-1.5zm-.8 8.4zm1.3 2.6zm1-.5zm1.6 .1zm.2 .7zm-.6-2.1zm-2.5 5.5zm.5 .4zm1.1 1.2zm-1.3 1.2zm-.1 .7zm-.5 0zm.3 .6zm-.9 .8zm-1.1 .8zm.5 .5zm0 1zm-.7 .1zm-.8-1.8zm-.8-.1zm-.2-1.1zm-.6-.7zm.4-.5zm0-.1zm.1-.3zm.4 .3zm-.2-.8zm.8 0zm.5 .1zm.6 .6zm1.1-.9zm-.5-.5zm-1.6 2.7zm-2.1 .4zm-.8 .4zm-.4 .7zm.8 .1zm-.4-2.2zm1.2-1.7zm-1.7-4.4zm-.5-.5zm-2.1 .2zm0-.7zm-.9 1.1zm-3.1 10.5zm-1.5 .5zm-2.6-.2zm-.5 1.9zm2.8 5.7zm-.4 1.4zm-.1 .1zm0 .3zm.3 .7zm1.5 .8zm.2 .4zm.1 .8zm0 .3zm1.4 .6zm.6 .9zm.1 .7zm-1.2 .6zm-.8 .3zm0 2.7zm.1 0zm.2 .2zm-.3 .1zm-.1 0zm-.1-.3zm1.5 .7zm.5-.2zm-.3-.5zm-.5 1.3zm2.3-2.6zm-.4-.6zm-.1 0zm-.3-3.3zm-1.5-1.9zm-.1-1.4zm2.9-.9zm1.4-.7zm0-.9zm-.5-.4zm-.3-.1zm.9-.5zm.4 .4zm.1 .2zm.6 .5zm.7-.6zm.2-1.2zm-.9-.1zm-1.8-.5zm-.8-.4zm-.2 .9zm-.1 .1zm-.6-.2zm-.4 .9zm.1 .6zm.5 .4zm-.5-3.3zm1.5-1.8zm2-.8zm.3-.1zm-.3-.3zm.3 1.3zm1-.1zm-.1 1zm.5 .1zm.6-.7zm1 2zm-.3 1.1zm2.1 1.7zm.6 .9zm-3.9 .1zm-.1-.3zm-1 1.3zm-.4 0zm-.3-.4zm4.6 3.2zm-2 2.2zm2.6 1.3zm.4 .4zm.4 .9zm.1 .2zm.3 .5zm-.9 1.5zm-.1 5zm-.9 0zm0 .6zm.6 1zm.6 .1zm.1 .9zm-1 .9zm6.1-4.4zm0 0zm1.4-3.8zm.4 0zm-.8-1.7zm1.8-2zm.4-1.1zm-.2-.1zm.9 .2zm.1-.8zm-.1-.5zm-.1-.7zm-.6 .2zm0 .2zm-.3 .3zm-1.1-.6zm-.7-.3zm-.6 .3zm-.4 .7zm-.4 1.2zm1.9-2.7zm3.4 .4zm1 .5zm-.1 .5zm1.1-.6zm-.4-1.1zm.4-.6zm.1 0zm.5-.3zm.5 0zm.1-.4zm0 .9zm.7 .8zm.7 .3zm.8 .7zm-.9 .8zm-.1 .3zm-1.2-.2zm-.5 .4zm.5 .7zm-1 .5zm.1 1zm0 .6zm-.5 .4zm0 .3zm.4 .1zm-.5 .6zm-1.2-.4zm-.3 .4zm-.3 .1zm-.4-.8zm0-.1zm.2-.2zm-.7 .1zm-.2 .3zm.7-1.2zm-.7-.3zm.2-1zm1.4 .3zm.2 0zm.2 .3zm2.3 1.9zm.2 .7zm5.9 2.6zm1.9-7.5zm.1-.8zm.9-.3zm-.8-.7zm-1.2 .1zm-1.8-.2zm-.9-.3zm0-.7zm.5-.8zm1.2-.1zm1-.9zm1.3 .4zm1.4-.4zm.4 0zm-.6-.8zm-.7-3.4zm-3.3 3zm-2 2.4zm-.1 2zm.4 .2zm-2.7-3.1zm-.8-.1zm-1 .2zm-.7 0zm-.7-.5zm.7-1.1zm.5-.2zm1.2-.8zm-3.3 1zm-.4 2.5zm.2 .1zm.6 .1zm.9-.1zm0-.1zm-3.8-6.2zm.4-1.1zm.6-1.3zm1.2-4.2zm.6-.8zm.5-.5zm.2 .7zm1.5 .5zm-11.2 1zm-.1 1.5zm1.4 4.4zm.6-.1zm-18.6 4.8zm-.3-.4zm-.5 2zm-.3 .5zm1.5 1.7zm-.8 .8zm-3.2 5.6zm.2 .5zm-1.3 1.3zm.2 .2zm-1 .5zm-.3 .1zm-.3-.2zm-.8-.1zm-1.1 1.1zm-.1 1.1zm.3 1.2zm-.1 .4zm.2 .6zm.7 .6zm.9-.4zm.4-.7zm.3 .2zm.2 .2zm.7-.3zm-.1-.2zm.4 .6zm.5-.3zm-.2-.5zm-.4-.5zm-.1-.2zm-.4-.3zm.2-.4zm-.2-.3zm.5 .5zm.3-.6zm-2.3-.1zm-.4 .9zm-3 .3zm-.3 .1zm.2-.4zm.1-.4zm-.9 .1zm0-.7zm-1.1 .8zm.6 1.1zm0 .4zm.8 .2zm-1 .7zm.2 .3zm-.7-.1zm.1-.3zm-1.1-.1zm-.1-.5zm-.8 .2zm.8 .8zm-.3 .4zm.2 .3zm-1.2 .3zm-1.3-.1zm-.9 2.3zm.5 .7zm.2 .1zm-.1 2.4zm1 1zm.4 .4zm-1.2 .3zm-.7-.2zm0 .7zm-.5 .2zm1 .1zm.4 .1zm-1.4 2.9zm-.1 0zm-.1 0zm.2 .4zm.3 .3zm-.8-.2zm-.3-.2zm0-.1zm-1.1 0zm-.5 .3zm-.4-.7zm.6-.2zm-1.4 .5zm-.1-.2zm.1 .8zm.7 1.2zm.1 .4zm.1 0zm.4 0zm.3 .3zm.6 .5zm.1-.1zm.5 .2zm-.4 .9zm-.7 .5zm.1 .2zm.5 .2zm0 .3zm0 0zm.1 0zm.4 0zm0 .9zm1.2-.1zm.4 .9zm.6 .6zm-.5 .5zm-.1 .2zm-1 .2zm-.7 .5zm-.6-.5zm-.2-.2zm-.8 .1zm-.1 .1zm-.9-.5zm-.6-.7zm.2-.6zm.4 .1zm-.5-.5zm.7-.4zm-.3-.3zm-.4-.4zm1.2-.6zm.3-.7zm.2 .1zm0 1.2zm0 2.3zm.5 1.8zm.5 .5zm-1.2-.2zm-.6 .3zm-.2 .3zm-.2-.2zm.8 .5zm-2.1-1.7zm-.2-.4zm-.2-.1zm-.6-.4zm-.4 .2zm-.1-.7zm-.1-.1zm-.5 .1zm.3-.6zm-.7-.2zm-.2 .1zm.4-.7zm-.1-.2zm-.2 0zm0-.3zm.6 0zm.4-.5zm.6-.4zm0-.6zm-.6 .2zm-.8 .7zm-.8-1.1zm0-.6zm.4-.1zm.1-.1zm1 0zm-.3-.9zm0-.3zm-.4-.8zm-.8 0zm0-.3zm.2-.8zm-.5-.1zm-.4 .4zm-.4 .3zm-.8 0zm-.4 .7zm-.7 .7zm-.2 .5zm.4 .3zm.6-.1zm.2 0zm.2-.4zm.8-.5zm.2 0zm.2 .3zm0 .3zm-.9 1.3zm-.2 .2zm.4 .2zm-.7 .7zm-.5-.4zm.8 1.3zm.1 .8zm.8 .5zm.5 0zm0-.7zm-2.1 1zm.1 .2zm-.5 .1zm.6 .5zm.4 .1zm1.1 .4zm-.5 .9zm-.3 .1zm-.5 .1zm.7 .7zm.8 0zm.4 .2zm-.4 .7zm-.2 0zm.1 1.1zm-1.2-.2zm-.9 .6zm1.1 .8zm-1.6 1.4zm-.5 .1zm-1.6-1zm0-.2zm.1-.2zm-1.9-.7zm-1-1.1zm-1.5-1.2zm-.5-.5zm.7-.7zm1-.7zm.6 .7zm.9-.5zm.3 .1zm.1-.2zm.5 .3zm.2-.8zm-.8-.4zm-.4-.3zm-.7 .1zm-.4 .1zm-.4-.9zm.6-.8zm-.8-.8zm-.2-.4zm-.2-1zm-.5-.2zm-.1 .3zm-.3-.2zm-.2 .2zm0 .6zm.1 .3zm-.8 .2zm-.4-.1zm-.2-.3zm-.1-.3zm-.3-.4zm-.4 .4zm0-.9zm-.6-.1zm-.2-.2zm.4-1zm.3-.6zm-.4-.1zm-.1-.6zm-.9 0zm-.7 .3zm-.9-1zm-.9-.2zm.3-.8zm-.4-.4zm.2-.3zm0 0zm-.1-.1zm-.2-.2zm.6-.2zm.5-.2zm.9-.1zm.3-.5zm-.6-.3zm-.6-.3zm-.1-.4zm0-.4zm-.7 .8zm-.5 .9zm-.5 0zm-.3-.3zm-.5 .5zm0 .7zm.6 .9zm-.1 .7zm-.2 .6zm-.1 .3zm-.4-.4zm-.3-.2zm-.5-.7zm-.8-.3zm-.2 .5zm-.5 .7zm.7 .4zm-.3 .6zm-.5-.1zm-.4-.2zm-.6-.2zm-.2 .8zm-1.2 .3zm-.5 .1zm.6-1.1zm-1.5-.5zm0-.3zm-.5 .1zm-.4-.2zm-.4 .1zm.4 .8zm.5 0zm-2-.7zm.1-.5zm-.5 0zm-.1-.6zm.3 0zm.3-.4zm.2-.2zm-.4 0zm1-1.3zm.1 0zm0-.1zm-.1 0zm-.2-.2zm.7-.7zm0-.1zm-.1-.2zm-.2-.3zm-.2-.2zm.1-.3zm0 0zm-.5-.4zm.8-.5zm-.1-.2zm.5-.2zm.9 .3zm.3-.4zm-.1-.3zm-.2-.3zm.9-.5zm.3-.8zm.1 0zm.9-.7zm.2-.1zm.8-.4zm.2-.4zm.3 .4zm.5-.1zm-.3-.5zm-.2-.8zm.2-.7zm.4-.2zm.2 .6zm0 .2zm.6 .2zm0 .7zm.5 .5zm.4 .5zm-1.1 .7zm-.3-.6zm-.8 .3zm.1 1zm1 .7zm.5-.1zm-.2-.6zm-.7 1.5zm.1 .5zm.1 .1zm.7 .4zm-.4 .9zm-.6 .3zm-.2 .1zm-.3 .2zm0 .8zm.1 .2zm.5 .2zm-1.9-.7zm-.1-.5zm-.6-.3zm-.1 .7zm-.2 .6zm-.6-1zm-.7-.2zm-.4-.6zm-.5-.1zm0-.6zm1.1-.5zm.1 0zm.4-.1zm.7-.5zm0-.1zm.3-.1zm.7-.1zm-.3-.5zm.2 1.1zm-.1 .4zm1.3 .7zm2.5 .3zm.3-.3zm-.1-.7zm.7 .3zm.4 .3zm.3-1.4zm-.6-2zm1.4-1zm.8 .8zm.5-1.1zm-.2-.4zm.4-.4zm.5-.6zm.4-.3zm-1 .1zm-.5 .1zm-.4-1.6zm-1.1-1zm.8-.5zm.3-.9zm0-.1zm-.7 0zm-.3 0zm.2-.5zm.4-.2zm-.3-.8zm-.6 .1zm-.2-.1zm-.2-.7zm.3-.2zm-.5-.1zm-.3 .1zm-.5-1.1zm-.4-.3zm-1.8 .8zm.4 .6zm.6 .6zm-1.3 .6zm-.6 .6zm0 .1zm-.7 0zm-.2 .3zm0 .3zm-.2 0zm.1 .7zm.8-.5zm-.2 1.4zm1.2-.1zm.3-.4zm.2 .5zm-.4 .4zm.3 .6zm.3 .1zm.4 .6zm0 .2zm.4-.2zm.3-.2zm0 .4zm.5 .2zm.2 .7zm.7 0zm-1.6-.2zm-.3-2.3zm1.2 0zm.2-1.2zm.3-.9zm-.9-.6zm2.3-1.7zm1 .1zm.7 1.2zm0 1.1zm.7 1zm.3-.2zm.8 .3zm-.2 .4zm-.9 .5zm1.4 .6zm.1-.2zm.5 .5zm.4-.4zm1-.8zm.6 .2zm0-1.3zm-.1 0zm.2-.5zm1 .3zm.5-.6zm.2-1.7zm.5-.1zm.4-.6zm-.7-2.9zm1.1-.5zm.4 .2zm-3.1-4.5zm-1.8 .9zm-.3-.2zm-.5 .1zm-.4 1.1zm-.5 .4zm-.2 .7zm-1.1 0zm0-.8zm-.2-1.1zm-.3-.5zm-.8-1zm-1.2-.5zm.6-1zm.6-.1zm.5-.5zm-1.4-.7zm-.2 .1zm.2-1.4zm-1-.3zm-.2 .4zm-1.2 .9zm-.9-.8zm-.5 0zm-.7 2.6zm.1 1.3zm.2 .6zm-.5 0zm-.9 .5zm-.3-1.3zm-1.3 .6zm0-1.4zm-3.8-1zm-2.6-.5zm-1.1-1.1zm-.2-.3zm-.6-.5zm.5-.4zm-.1-1.3zm-.6 .2zm-1.4 .9zm1 1.4zm-.3 .8zm-1.2 1.5zm-.6 .6zm2 .3zm.5 0zm-.9 1.8zm1.2 .8zm.4 .4zm.4-.5zm-.3-.5zm.6 1.1zm0 0zm.4-.3zm.9-.1zm1-1zm.9 .2zm.3 .3zm-.2 .7zm.3 .5zm-1.2 .3zm-2.5 .9zm-2.1-1.1zm.5 4.1zm-.4 .2zm4.7 1.6zm.6-.4zm-.3-.3zm0-1.6zm-.7 3.2zm3.8-1.1zm.2 .6zm1.1 .2zm.1-.7zm0 1.7zm-.1 0zm-.1 .3zm-.7 .3zm-.1 .8zm0 .2zm.4 0zm-.3 .5zm0 .2zm.2 0zm-.4 .1zm1-1.2zm-1.3 4.2zm-.4 0zm-4.8 1zm-1.4 2.4zm-.4 .4zm-.2 .6zm-.1 .3zm-.8 .2zm-.1 .4zm.1 .3zm.4 .4zm.9 .8zm-.4 .6zm-.5 .8zm1.1 .1zm1.2 .8zm.4 .2zm.6 .1zm-1.1 .7zm.5 .5zm0 1.5zm.3 1.6zm.4 .9zm.6-.6zm.4-.1zm.2 .2zm-.2 .2zm0 .3zm.9-1.1zm3 1.1zm.5 .7zm.2 .9zm1 .1zm1.6-1.2zm-.8-1zm-.1-.6zm0-.6zm.5-.1zm.3 0zm.2 0zm.2 .2zm-.5 .5zm-.3-1zm0-.1zm1.7 1.8zm.5 .7zm.4 0zm.4-.2zm.1 .3zm1.3-.7zm.4 .4zm-.6-1.3zm.2-.1zm.5-.1zm0-.9zm-.4-.7zm.3-.5zm0-.1zm-1.2-.8zm-.7 3.2zm3.7 0zm.2 2.2zm-.8 .9zm1.4 .7zm.1 0zm.6 0zm.7-.7zm-.8-.5zm.5-1zm.2 0zm.8 .1zm1.3 1.9zm3.2-1.4zm.4 .2zm.1-.3zm.5-.4zm.8-.4zm1.1 .1zm1 1.5zm-.9 .5zm0 1.2zm-.2 .5zm-.6-.2zm-.2-.5zm-1.1-.7zm-.5-.3zm.9-.4zm-1.4-1.5zm-.3-.7zm-.1-.7zm.3 0zm.5-.2zm0-.5zm.2-.3zm.6-.2zm.2 .6zm.9 .1zm0-.5zm.4-1.6zm.7-.1zm-1.3-.3zm-1.2 1.1zm-1.3 .3zm-.3-.9zm.3-.9zm.2-.2zm.6-.4zm-.3-.9zm0-.9zm.8-2.4zm.2-.4zm.1-.3zm.4 .7zm1.4 .3zm.5 0zm.2 .3zm-.3-1zm.1-.9zm-.3 0zm0-.9zm-.5-.3zm.3-.7zm.5-.3zm.1-1.1zm-1.2 .3zm-1.1 .4zm-.3 0zm-.1 .9zm-.6-.1zm0 .6zm.5 .5zm.5 .3zm.6-.9zm-1.7 1.5zm-1.6-.7zm-.8 .7zm.2 .5zm.3 .5zm.3 .4zm-1.5 1.3zm-.4-.6zm-.6 .5zm-.3 1.3zm0 .9zm-.1 1zm.8-.1zm.2 .5zm.8-.2zm.2 1.1zm.5 1zm-.8 .1zm-1.1 .4zm-1.2-.1zm-.1-.2zm0-.1zm-.2-.6zm.5-.3zm-.5-.3zm-1-2zm0-.7zm-.5-.2zm.7-.3zm.5 .4zm0 .4zm.1 0zm-.1-1.5zm-.4-1.9zm-.6-1.2zm-.5-.7zm.2-.8zm.3-.4zm0-.2zm.5 .1zm0-.9zm.8-.6zm.3-1.5zm.9-.7zm.7 1.3zm.6 0zm.1 .2zm.1 .1zm.2 .1zm-.3 .5zm-1 .2zm-.1 1.1zm.5 1zm.3-.2zm-.3 .8zm.2 .4zm-1.8 .3zm-.2-.3zm-.5-.8zm-.5-.1zm-1.6 1.9zm0 1zm5.6-3.7zm1.1-1zm.5 .8zm1-1.9zm-.5-.7zm-.3-.6zm-.8-.3zm-.1 .3zm-.8-.1zm-.4 .5zm.6 .6zm0 .1zm.7-.1zm1.8-.6zm.6 .2zm.3 .1zm-.3-.6zm-.9-.6zm0-.5zm.3-.2zm.1 0zm-1 0zm-.1-1.1zm-.2-.1zm.5-.4zm-2.4 2.1zm-.2-.1zm-1.1-2.4zm-1-1.4zm0-.2zm.3-.1zm1.2-.3zm-.1-.3zm-5.4-4.3zm-2-1zm-.4 .2zm-.1-.3zm.1-.5zm-.6 .7zm.2 .3zm-.4-1.9zm.2-.3zm-.6-.2zm1.4-2.4zm-.1-1zm4.4-2.2zm1.8-1.3zm-.2-.9zm.8 0zm.6-.3zm.9 2zm.3 .1zm.8 .1zm0-.7zm.9-1zm.7 .4zm0 .8zm.8-.6zm1 .1zm.1-.2zm.7 .5zm.5-.6zm-1-.9zm.1-.2zm.1-.3zm-.9-.4zm-.2 0zm-.4-.1zm0 .3zm-.2 .6zm-.7-1zm-.1-.7zm.6-.1zm2.1 0zm.8-.4zm.2-.7zm.4-.8zm.5 .2zm-1.2-.3zm-.3 0zm-.7 .3zm-.4-.2zm.6-.8zm1.4-1zm1.6 .8zm2.4-1.2zm0 5.6zm-2.6 .2zm-.3-.3zm-.5-1zm-2.7 4.4zm-.4 .1zm-1.9 0zm-2.3 .3zm-.3 .2zm-.2 1.2zm-1.7 .8zm-.4 .2zm-4.5-6zm2.2-10.2zm-.9-.7zm-.5 .3zm-.7-1.1zm3.1 .6zm1.3-.4zm5.1-5.2zm.6-1.8zm1.1 .4zm.7 1zm1.3-.2zm.5 .2zm.5 4.5zm.3 .6zm.6 .1zm.6 .7zm.4-.6zm3.1 .6zm.4 .2zm-.2-.9zm2.5 2.2zm.4-.2zm1.9-1.1zm1.2 .9zm-.3 1.8zm4.1 .1zm.7-.1zm.9 .4zm.1 .2zm-1 1.2zm.1 1.3zm1-.2zm1 .6zm-.4 .9zm-1.7 .6zm-1.4-2zm3.4-1.2zm.2 .2zm.3-.3zm1.1-.8zm-.3 2zm-1.9 5.2zm-.6 4.9zm-.1 .6zm-.2 .4zm0 0zm1.2 1.1zm.7 .5zm-.2 4.2zm-1.1-.2zm1.6 2.4zm-2 1.5zm-1.1-.4zm-.1 .9zm-1.4 2.3zm-5 4.6zm-.3-.2zm-.1-.2zm.6 .7zm-.1 .1zm-.6 2.8zm-.1 1.5zm-1.4 1.3zm-.6-.7zm-.4-.6zm-.3 .3zm-.2-1.3zm-.5-.2zm.5-.4zm.1-.1zm-.4-.2zm-.6-.1zm-.2-.5zm-.5 .2zm-.1-.5zm1-.1zm.5 .3zm-.9-1.2zm.2-.6zm-.5 0zm-1.1 .7zm-1-1zm-.4 1.7zm-.7 .5zm.3 1.7zm.6 0zm0 .9zm.5 .4zm.7 .3zm.6 1zm.3 1.7zm.1 .5zm.2 0zm.3 .7zm-.8-.1zm1-1.2zm.6 .6zm.5-.3zm1.3-.4zm.1 3.5zm-.6 .3zm.9 .5zm.2 0zm-2.2-.8zm-.4-.1zm-.2 .2zm-.1 4zm.1 1.1zm-.9 1.6zm1.4 .5zm-1.5 1.1zm-.2 1.4zm.3 .7zm-.8 .2zm-1.3-3.2zm-2.2 .6zm-.3-.4zm-.4 0zm-.6 1.6zm-1.7-.3zm-.7-1.1zm-.1 0zm-1.4-5.9zm-.3-.3zm-.1-.2zm.8 .3zm3.8-6.3zm-.2-.3zm1.4 .8zm.3 .1zm.1 0zm.2-.7zm.3-.2zm.1-.4zm.5 2.3zm.4 .1zm-.2 .3zm-.5-.1zm3.1-4.1zm-.4-1.7zm-.9 .2zm7 7.4zm.9 .3zm.2 0zm-.3 1zm.1 .1zm.1 .2zm.1 .7zm1.2 .8zm.2 .2zm.7-.4zm.4-.9zm.4 1.5zm.8 .3zm-.2 .4zm.7 .4zm-.3 .8zm.2 .6zm.6-.6zm.3 .1zm.3 .4zm0 .4zm-.3-.1zm1.4 .1zm.4 .5zm.4-.6zm.6-.5zm.9-1.2zm.8 .9zm2.3-.9zm.7 .7zm-.7-2.1zm-.5 .2zm-1.1-.5zm.1-1zm.4-.5zm.4 .1zm.8 .2zm-.2-1.5zm-.5-.3zm-.8-.3zm-.6 .5zm-.1 .4zm-.2 .8zm-.8-.9zm.2-.8zm-.5 2.2zm-2.6 .6zm-.3 .7zm-.2 .2zm-.1 .5zm-.5-.3zm-.6-.2zm.1-.5zm.6-.6zm1.7 1.6zm-.1 1.4zm-.9-.3zm-2.6 .1zm-1.3-.4zm-.2 .1zm.8 2zm-.6 1.4zm.7 .6zm0 1.4zm-.2 0zm.9 1.3zm-.6 .8zm-.4 .6zm-.4-1.1zm-.9 0zm-.4 1.1zm-.3-3zm0-1.1zm4.8 .2zm.2 .8zm.9 .2zm1.1 .2zm.3 .2zm.1 .1zm.6 .7zm.8 .2zm.5-.4zm-.4-.7zm-.4-.7zm.2-1.1zm-1-.7zm2.8 1zm.4 .5zm.2-.9zm1.5 .5zm2.5 2.3zm.4 1.2zm1.4-1.8zm-.5-.4zm1.3 .4zm.1 .5zm0 1.3zm.9-.1zm.7-.2zm3.7 2zm-.1 2.3zm-.8 .2zm-1.1 1.7zm-.7-.4zm2.7 .9zm2.8-.8zm1.5 .5zm.4 .2zm.6 .4zm.7 .4zm-1.2-3zm-.9-.8zm-.2 .2zm-1-.7zm3.4 .1zm.8 .5zm.4 .5zm6.6 .5zm2.2 1.3zm2.7-1.5zm0-1.9zm2.8-.9zm0-2.2zm-1.4-.2zm-.9 .4zm-1-1.5zm.9-1.6zm-3.1-.8zm7.5 4.4zm3.2-3.7zm.6-.7zm-.6-.8zm-2.2-1.8zm13.1-4.9zm-1.3-3.1zm4.3-13.6zm.9-2.1zm-1.1-.2zm-.3-.6zm1.5-.4zm2.5-2.1zm-.5-.7zm-.4-.8zm.3-.3zm-.6-.5zm.1-.7zm2.7 .1zm.4-1.9zm.6 .2zm1.1-.6zm0 1.7zm1.8 2.3zm1.3-1.2zm1.2 .3zm1.2-.3zm0 1.4zm-.8 .1zm.2 1.4zm1.7-.2zm-2.5 4.2zm1.5 .9zm-3.2-.3zm-1.1-.5zm-1.1-.2zm-.5 1.2zm-.3 1.1zm.3 2.1zm0 .1zm2.2-2.5zm1.2 1.5zm.6 1.5zm2-.3zm-6.5-6.7zm.2-.5zm-.5-.2zm-.6 .7zm-1-3.2zm-1.1-5.2zm1.6-2.9zm2.2-.8zm6.9-.8zm.4-1.5zm0-1.4zm1.6 3.8zm-.3 2.4zm3-2.2zm3.5-1.8zm.2-.5zm.3-.3zm1.1-.4zm2.1-4zm-16.2-5.7zm-1.5 1zm-.2-.4zm-.2-.3zm-.1-.4zm-.8 1zm.3 .8zm-1.4-.4zm-4.7-1.2zm-2.2 13.4zm-3.6 3.7zm.5 2zm-2.5-1.3zm-.3 .3zm.1-.7zm-.2-.8zm-1 1.8zm-24 26.5zm-10-.1zm-.3-2.5zm0-.1zm-.6-1.5zm-2.6-2.7zm-.2 .1zm.4-.9zm-.2-.6zm-.7-.1zm.2-.5zm.3-.1zm-.7-.2zm0-.2zm-.6 .6zm-.3 .2zm-.5-.7zm.2-.2zm-.5-.1zm-.2-.1zm0-.2zm-.2 .2zm-.2 .2zm-.2 .7zm0 .3zm0 .5zm-.3 .1zm-.5 .4zm-.7 0zm-.5 .4zm-.3-1zm-.8-.2zm-.7 .1zm-.5 .1zm.3 .5zm0 .4zm.5-.5zm-1.3 .3zm-.2-.9zm-.1-.4zm.1-.6zm.7 0zm1.2-.2zm.1-.4zm.9 .2zm.4 .2zm.5-.1zm.6 .8zm-.8 .4zm1.8 .6zm0 .1zm.3-.2zm1.4 .3zm-2.6 .9zm.2 .6zm-.3 .2zm-.5-.1zm-.8 .2zm-1.3-.6zm-2.8-1.5zm-.2-.6zm-1-.2zm-.5 1zm2.8-2.8zm.4-.2zm.2-.7zm-.1-.5zm-.1-.1zm.6-.5zm.1 .1zm.5 .2zm.1-.1zm.4-.1zm-.2-.9zm.3-.6zm.4-.4zm-.9 .1zm-.4 .1zm-.7 .7zm.1 .2zm-.4 .3zm.9-.2zm1.5-.3zm0 1.8zm.2 .2zm-.2 .1zm-.4 .3zm.6 .3zm.4-.5zm.1 0zm1.1 .8zm.5-.2zm-.1-.3zm.3 0zm.9-2zm.4-.1zm.5 .4zm.6 .5zm.1 .2zm-.6-1.5zm-.3-.5zm-.5-.2zm-.2-.2zm-1.2-.9zm-.3 .9zm2.2-1.6zm.1 .1zm-2 11.9zm-.3 1.2zm-2.3 .7zm2.2 2.6zm-.2 .6zm.5 .4zm.5-.2zm.3 .3zm1.9 .5zm-1.1-2.9zm-14.9 .3zm-.2 .4zm4.2 10zm-.4 4.2zm-27.8-.8zm-1.3-1zm-.3-.5zm.8-.1zm.3-.3zm-4.2-.7zm-.1-.1zm-1-2zm-1-2.1zm1.9-1.2zm-3.5-3.3zm1.1-5.3zm0-.1zm-.1 0zm-.2 0zm0-.3zm-1.1 .2zm-.5-.4zm-1.5-1.5zm1.5-1.6zm.5 .3zm-4.9 .2zm.1-1.4zm-1.7 1zm-.3-.4zm-.3 .3zm0 .2zm-.1 .3zm-.3-.4zm-.2 .2zm1.1 .3zm-4 1.4zm-.4-.2zm-.5 .7zm-.3 2zm-.1 1zm2.1-.4zm1 .5zm.2-.4zm.5-.3zm-1-.7zm.5 3.2zm2 2.4zm.2 .8zm.9 .6zm-.3 1.1zm-6.5-.9zm-5-4.3zm-.7-.2zm-1.1-.2zm-.2 .3zm-.3-.3zm-.4-.2zm.5 1.1zm.1 .4zm-.7 .5zm-1-1.4zm-.6-1.1zm.6-.3zm2-.3zm-3.2 2.1zm7.4-4.8zm1-.4zm-.9-1.1zm.5-.6zm-.3-1.2zm-3.2-1.6zm-.9-1.5zm1-1.7zm-.6-.4zm1.2 0zm1.1-1.1zm1-.1zm.2 .7zm.9-.2zm.9-.3zm0 1.5zm0 .6zm.9-.3zm-2.6 .1zm-.5 .5zm-1.2-4zm1.1-.4zm-2.9 1.2zm-3.7-1.1zm0-.2zm-.2-.8zm.2-1.2zm1-1.9zm-4-.3zm1.4 4.3zm-1.5 .6zm2.9 3.3zm11.2-3.5zm-4.3-8.9zm4.1-7.4zm.2-4.6zm1.3 0zm.5 .4zm3.7 8.1zm4.8 5.6zm2.5 .5zm-.3-26.1zm-1-2.2zm3.2-.4zm0-2zm7-4.4zm.7-1.5zm10.4 1.9zm.1 0zm2.1 .4zm8 6.6zm1 1.1zm.2-.2zm.3 .1zm0-.2zm.5 .1zm1.6 1.7zm.6-.3zm-5 17.6zm-1.9 .4zm-1.7-.2zm2.9 2.9zm-.3 2.5zm3.5-1.4zm-29.6 38.5zm.7 3.3zm2.8-.2zm-19.5-62.5zm1.7-2.1z"/>
<path id="q2m" d="M17.3 282.6zm3 1.8zm3.9 3.6zm.5 .9zm1.6-3.6zm-.5-2.8zm.2-2zm-3.1-2.1zm-1.2-.8zm1.6-7.9zm11 4.5zm6.2-.1zm.8 6.4zm1.8 2.3zm-1.1 1.1zm2.9 .3zm2.6-2.3zm.6 .6zm3.1 1.3zm1.9-.6zm1-1.9zm2.8 .3zm2.2 .8zm-.4-2.4zm3.6 3zm.6-6.7zm.1-.1zm.9-4.7zm3.8 1.4zm.8 4.4zm4.2 4.4zm-1.5 2.3zm-.6 1zm.2 .2zm-.8-.2zm-2.7 3.2zm7.5-.1zm.4 .9zm.3-2.5zm4.7-.7zm-.2-1.1zm.5 4.1zm.7 .6zm-1.6 3.1zm2 1.7zm.6 .1zm1.7 3.3zm-.7 1.5zm2.5 1.8zm1.5-3.1zm.3 .1zm2.1 1zm.1-.1zm2-1.9zm1.1-.2zm.9 .3zm.6 .5zm1 .1zm1.3 1zm-.2 .7zm.8 .4zm-.8 .5zm-.3 .3zm-.5-.8zm-.8 .6zm0 1.2zm.4 .2zm1.1 .8zm-.1 .6zm.9 1.6zm3.2-.6zm.8-2.3zm.6-.3zm.7 1zm1-.2zm-.1 .8zm1.5-1.8zm.1-.1zm1.8 1.1zm.3-2.4zm.2-.6zm.1-.9zm.2-.4zm.2-.2zm.7-.5zm.2 .6zm.6 .4zm.1 .3zm-.3-2zm0-1zm.2-.8zm1.1-.7zm.9-.9zm1.4-.2zm.4 .1zm-.5 1.5zm.5 .3zm-.1 .4zm-.5 .3zm-.4 .2zm1.2 .6zm-.1 .2zm1 .1zm-.1-1zm.9-.2zm.7 1.5zm.1 0zm.8 .9zm1.2-1.1zm-.2-.9zm-.2-.6zm.8-.1zm1.3-.3zm1.2 .5zm.1-.5zm.5-.2zm.2-.2zm.7 0zm.2 .4zm.6-.9zm-.6-.5zm-.8-.3zm1.4-.6zm.6 .6zm0 0zm.3 1.1zm1.4-.9zm.6 .3zm.3 .4zm.4-.7zm.4-.9zm.2 .1zm.8-.2zm.2 .1zm.7 .8zm.7 .7zm0 .3zm-.2 0zm.4 0zm.4 0zm.2-.2zm0 .4zm.1 0zm.8 .1zm.3-.3zm.6 .6zm.1 1zm-.7-.1zm-.3 .2zm-.2 .4zm-.5 .1zm.1-.6zm-.9 .3zm-.6 .4zm.3 .6zm.3-.2zm.3 0zm-.5 1.2zm-.1 .4zm-.6 .9zm-1 .3zm-.4 .6zm-.5 .1zm-1-.6zm-1.2 .7zm-.5 .3zm.4 .3zm-.5 1.6zm-.7-3zm-.8-.1zm-.3 .4zm-.8 0zm-1.2 1zm0 .5zm-1.7-.7zm.1 1.8zm-1.5 .4zm-.3 .3zm-.3 .4zm.5 .9zm.6-.1zm.2-.5zm1.4 .8zm1.1 .2zm.1 1.2zm.6 .9zm.2 .3zm-1.1 .8zm-2-1.4zm-1.5 2.2zm-.3 .2zm.5 .3zm-7.6-2.7zm-1.7-2.2zm-1.1 1.1zm-1.4 2.5zm-.7 2.1zm-1 .1zm-1.1-.4zm1.3 3.2zm-5.5-1.8zm-4.1-3.8zm-.2-2.2zm-.9-.6zm1-2.2zm-1.2-1.3zm2.8-6zm1.3-.5zm1.5-.3zm.2 .3zm.1-.7zm1.2 .4zm-.1 2.7zm.5 0zm.9 .5zm-.5 1.3zm.3 .8zm-.8 .4zm-.6 .3zm-.1-1zm-.5-.8zm.1-1.4zm3.6 1.1zm1.5-.4zm.4 .7zm1.1-1zm0-.2zm.4-.4zm.7-1.8zm.2-.2zm0-.8zm-.2-.8zm1.6-.8zm-.1-.8zm.1-.2zm.6-1zm.2-.7zm0-.3zm1.9 .1zm1.1 .9zm.1 .3zm1.1-.5zm0-.3zm.1-1.3zm.7-1.2zm.9-.7zm1-.5zm.1 1.3zm1.3-.5zm.5 .9zm-.2 1.2zm.1 .1zm.2 0zm-.1 .4zm-.7 .1zm-1.1 .3zm0 .2zm-.2 .5zm.5 .1zm.5 .3zm0 .7zm-.3 .1zm-.4 .2zm-1.6-.4zm1.4-2.6zm-1-.4zm-2.8-1.6zm-1.3-.7zm-1.9-1.1zm-.1-.5zm-1.3 0zm-1.2-.7zm-.3-.1zm.4-.3zm-1 .8zm-.2 .4zm.3 .6zm.5 .6zm.3 .6zm-.1 .8zm-1.2-1zm-.8-1zm-1.8-.6zm-1.2-.5zm-.4 .5zm-1.2-1.1zm1.6-.5zm1-.5zm1.2-.6zm1.9-.8zm.6 .5zm.7-1.3zm.2-.9zm.9 .5zm.6-.6zm-.1-.7zm-.1-.5zm.4-.1zm.4 .5zm.8-.4zm.1 .9zm-.2 .2zm-.1 .1zm.2 .3zm0 .1zm-.2 .2zm1.7-.7zm.2-.5zm1.5 .3zm.9-1.2zm.5 .4zm1.5 .5zm1.8-.7zm-.2-.7zm1-.9zm.2-.2zm.2 .9zm-.1 .6zm-.3 .5zm1.6-.5zm.4-.4zm.1-.7zm-.1-1zm-.5-.5zm1.2 .3zm1.2 .5zm.1 .8zm.8 .6zm.1 .7zm.2 .9zm-.5 .5zm.5 .8zm0 .7zm.3 .8zm.7-.1zm1.1 0zm-1-1.3zm.3-.8zm1.3-.7zm0-2.2zm-.8-.6zm-1.2 1.2zm-.3-.3zm-.4-.3zm-1.1 1.9zm-1.4 .1zm-.6 1.7zm1 .5zm-.2 1.6zm-.4 .1zm.2 .7zm.7 1zm0 .2zm.2-.1zm-.2 .4zm-.6 .7zm.1 .4zm-.7 .3zm0 1zm-.1 .6zm-.7 .2zm-.3-.7zm0-.1zm-.3 .2zm0 1.4zm-.1 .4zm.3 .8zm.4 .2zm.5 .3zm.3-.2zm-.5-.7zm-.7 1.1zm-.4 .1zm-.9 .2zm0 .5zm-.1 1.3zm.1 .3zm.8-.3zm.2-.4zm.2-.1zm.7-.2zm2.7-1.3zm.7 .2zm.3 .4zm.5-.9zm-.7-.6zm1.1-.5zm.1 .3zm.5-.2zm.2-.2zm.4 .4zm.3 .1zm-.2 .2zm.4 .7zm.5 .1zm0 .4zm-.7 .2zm-.8-.2zm.4-2.4zm.4 0zm-1.1-.1zm-.3-1.1zm-.8 .5zm-.4 .3zm-1.3-.2zm-1 .1zm1.2-1.2zm0-.2zm.2-.4zm0-.9zm1 1.2zm.8-.3zm.4-.3zm-.6-.2zm.3-1zm-1.3-2.3zm-3.3 .1zm-.4-.3zm-.3-.1zm-.5 .5zm0-1.3zm.7-1.7zm-2.6 1.5zm-.6 .6zm-.5 .2zm1.1 .8zm.3 .1zm.2 .3zm.2 .3zm.3 .4zm1 .4zm.2 0zm1.2 0zm-2.3 1.3zm-.7-.4zm-.5-.8zm-.3-.3zm0-.2zm-.2 .2zm-.1-.1zm.3-.8zm-2.1-.9zm-1.3 .5zm-.2 .5zm1.3 .9zm-2.7-2.7zm2-1.1zm-2.2-3.8zm-.5-.2zm0-.4zm.3-.7zm.2-.2zm-1.4-.4zm.6-1.2zm-.7-.2zm-1.4 .3zm0 .3zm-.4 1.5zm.5 1.7zm.8 .2zm-1.6 1.1zm-.4-.4zm-2.3-.7zm-2.7 2.6zm-.2-.2zm-1.3-1.9zm-2.3 .5zm-.3 .9zm-2.1-.5zm-.7-.1zm-.2 .8zm-1.6 .2zm-1.6 .3zm-.8 .2zm-.3 .3zm-.4 .5zm-.5-2.1zm-1.7 1.5zm-.7-.6zm-.3 1.9zm-2 1.9zm-.8 .6zm5 2.2zm1 .1zm.4 1.1zm-1.2 .9zm-.8-.2zm1.6 1zm1.3-2.9zm1.9 .8zm-.2 .7zm-.4-3.5zm-.5-.4zm-1.9 .6zm4.1-1.9zm1.3 .8zm1.5-.5zm0-.6zm-1-.6zm0-.6zm-1.6-3.6zm-2-.6zm-.8-1.5zm-.6-.6zm-2.1-.3zm-3.5 2.7zm-5.7 1.5zm-3.2 1.3zm.9-4zm-1.7-3.9zm.1-.5zm1.6-.7zm3.3-1zm3.5 .8zm1.2-.6zm3.3-.8zm3 1.6zm3.3 0zm0 1.7zm1.5 1.1zm.1 .8zm4.2-2.6zm3.7-.3zm.2 .6zm.6 .5zm.3 .3zm.1-2.3zm1.2-.2zm-.5-1.8zm.2-1.8zm1.5 .8zm.9-.8zm1.6 .6zm1.2-3.2zm-1.2-2.1zm-1.1 .5zm-.6 .9zm-.2 .5zm.4 .2zm-1.5 .6zm-.8-.8zm.6-1.9zm1.1-.1zm-5.5 .3zm-.3 1zm-1.5-.4zm-.6 2zm-2.9 .9zm-2.2 3.3zm.3 .2zm5.4-1.3zm3.5 1.7zm4.2 1.1zm2.4 2.5zm.6 .3zm.8-.4zm.9-.6zm-.4-1.3zm.6-1.1zm.2-.5zm1.1 .3zm.9 .3zm.5-.8zm.2-.9zm.8 .7zm.7-.1zm1.1 .1zm.5-1.8zm-.2-.2zm1.6-.8zm.2-1.4zm2.6 .3zm-.2 1zm-.6 1.7zm0 .8zm0 .4zm.2 .3zm2.2-.2zm0-2.5zm1-.9zm1.1-.3zm.8 1.4zm-.1 .5zm.7-.1zm.4-.5zm-.2-1zm.3-1.1zm-.3-.7zm2-.4zm4 .6zm.8 1.2zm-.6 .7zm-.1 .2zm.6 .4zm.5 .9zm.3 .2zm.7-.4zm.4-1.5zm-.1-.5zm-.5 .1zm2.1 .9zm.3 .9zm0 1.2zm1.2 .3zm.1 .3zm.2-.7zm0-.3zm1.2-.1zm.6 .9zm.2 .2zm.3-.5zm.4-.1zm.4 .8zm-.1 .2zm.3 .6zm-.3 .5zm-.9 .1zm-.5 .3zm.9 .5zm-.1 .8zm0 .2zm0 .4zm-.2 0zm.3 1.3zm.6-.2zm.3 0zm.1 .2zm-.3 .3zm-.1 .1zm-.3 .7zm-.3 .7zm-.9 .6zm-.9-.3zm-.4 0zm-.6-.1zm.2-.6zm.8-.4zm0-.5zm.9 .4zm-1.3-1.5zm-.3-.6zm-.5-.9zm-.8 .5zm-1.5 .1zm-.3-.8zm0-.9zm-1.1-.3zm-.4-.7zm.3-1.1zm-1.9 .3zm-.6 .6zm.2 .4zm.6 .7zm1.5 1.4zm.1 0zm.3 .2zm.1 .4zm-.3 .5zm.5 .4zm.3-.3zm0 .6zm1.5 .2zm1-.2zm-.8 2.4zm0 1zm-.5 .1zm-.8 .1zm0-.4zm.1-.5zm.2 0zm0-.5zm-.5 0zm0-.2zm-1.4 0zm-.3 .2zm.2 .4zm0 .1zm-1 .3zm-1.3 .3zm-.4-1zm1.3-.7zm-1.5-.8zm-.6 .2zm-.2-.4zm-.7-.4zm-.3 .4zm-.4-.8zm0-.3zm.5-.3zm.2 .1zm.3-.4zm.4 .3zm1.1 .4zm.4 .3zm-.2 .2zm1.8-.1zm.6-1.2zm2.3-3zm.7 .5zm1.6 .2zm.8 0zm0-.6zm2.4-2.4zm.2-.5zm-.7-.7zm-.4 .3zm.9-.7zm1.1 .3zm.2 .5zm.8 .2zm-.3 .7zm.3 .9zm-1.1 .4zm2.9-.2zm.1 .3zm.7 1zm1.9 .7zm1 0zm0 1.1zm-1.4 .7zm1.1 1.2zm-.4 .9zm-1.1-.3zm-.3 .1zm.2 .4zm-.7 .2zm-.9-1.4zm-.1-.5zm-.1-.2zm-.5 .1zm-.6 .1zm-.3 .6zm.1 .2zm-.4 .4zm.4 .5zm.6 .3zm-1 1.1zm-.7-1zm-.9-1.7zm.7-.5zm-.7-1zm-1 5zm1 .2zm.1-.1zm-.2 .5zm-.6 .8zm.5 .2zm.1 .7zm-.3 0zm-.5 0zm-.4 .1zm-.4-.2zm-.7-.6zm-.3 .6zm-.1 .3zm-.1 .1zm-.1 .4zm0 .1zm.3-.1zm-.5 .4zm-.2 .2zm-.2-.5zm0-.6zm0 0zm-.2 0zm.4-.7zm.2-.5zm-.6-1zm-.8 .7zm0 1zm-.8 .2zm-.4-.3zm-.3 1.1zm.3 .5zm-1-.2zm-.1-.3zm-.5 .3zm-.9-.3zm-.8 .7zm-.1 0zm-.3-.2zm0-.1zm-.3 .4zm.1 .1zm-.4 .4zm-.7 .1zm0-.4zm.3-.3zm.1-.4zm-.4 .1zm-.5-.4zm-.4 .1zm.2 .5zm-.6-1.1zm1.2-.7zm-1.1-.9zm-2.1-.8zm-.4 0zm-.2 1.6zm.4 1zm-.3 .4zm0 .7zm-.5 .6zm.3 .3zm.2 .3zm-.4 .5zm-.1 0zm-.4-.6zm0-.3zm-.6-1.1zm-1.1 .7zm-.1 2.3zm.2 .4zm.8 .2zm-.8 .8zm0 0zm.7 .6zm.8 .7zm.6 .5zm.3-.3zm.3 .3zm.5 .6zm.6 .4zm.2 .2zm.4 0zm.3 .4zm0 .1zm.3 0zm.1 .3zm0 .9zm-.5 .1zm-.2 .4zm-.3 .4zm.6 0zm.5-.1zm.1 .1zm0 .1zm.2-.6zm.8-.6zm.3-.2zm.5-.3zm.2 .2zm.1 .1zm-.1 .2zm-.2 .4zm1.1 .2zm.2 .2zm.4-.4zm-.2-.5zm0-.3zm0-.6zm0-.4zm.6 0zm.3 .3zm.6-.6zm.5-.1zm.4 0zm.1 .2zm.4-.2zm.7 0zm.2 .3zm.7 .1zm-.1 .8zm.4 .4zm-.3 .7zm-.2 .6zm-.3 .6zm.5 .4zm0 .3zm-.1 .3zm-.2 .6zm-1.1-.4zm.1-.7zm-.4-.5zm-.3-.2zm-.5-.2zm-.5-.4zm-.3-.5zm-.3 0zm.3-.4zm.8 .1zm.7 .1zm.6 .1zm.4-.5zm-1.3-.8zm-1.8-1zm0-.3zm-.6-1.1zm.5-.5zm0-.2zm.1-.5zm1-.3zm.6 1zm.2 0zm.2 .1zm-.5 .3zm1.1 .4zm.3 .1zm.6 .8zm.8-.7zm.3 .4zm.2-.3zm.5-1.1zm-1.2-.2zm.2-.7zm-.1-.5zm-.2-.1zm-.9-.4zm-.5-.2zm-.4 .1zm-.3 .2zm.2-1zm-.6-.3zm1.4 .1zm.9-.8zm.5 1.3zm1.8 .9zm.3 .3zm.3-.5zm.5-.7zm.1-.7zm1.4 .3zm.4 0zm.4 1zm.7 1.2zm.8 .7zm.3 .3zm1 .5zm.2 .2zm0 1zm.3 .5zm-.9-.7zm-1.1 .1zm.2 .8zm.3 .3zm.4 .7zm.6 .7zm.5-.3zm-2.2-.1zm-.4-.2zm0 .6zm-.4 0zm-.3 .6zm-.3 .2zm.4 .4zm1.2 0zm-.1 .5zm0-1.2zm-.7-2.1zm-.9-.3zm-.7 .1zm0-.4zm-.2-.6zm-.8-.2zm0-.4zm.1-1zm0-.5zm-1 .9zm2.3 .6zm-1.3 2.3zm.1 .4zm-.2 .3zm-.5 .6zm-.2-.1zm-.7-.1zm-.3 0zm0 .1zm0-.9zm.6-.1zm.1-.5zm-1 0zm-.5 0zm-.1 1.2zm.1 1.2zm.5 .8zm.4-.2zm.2 .5zm.3 .3zm.1-.1zm-.4 .5zm-.5-.1zm-.4 .3zm-.2 .1zm-.1 .2zm.5 .2zm-.1 .3zm-.2 .5zm-.3-.1zm-1.5 0zm-.4 .2zm.5 .5zm-1.1 .4zm-.2-.9zm-.8 1.3zm-.6 .1zm-.2-.4zm-.2 .1zm-.4 .6zm-1 0zm.2 .6zm-.3 .5zm-.7-.8zm-.6 .1zm-.2 .3zm.3-.8zm-.5-.9zm-.6-.6zm-.4 .5zm-.3-.3zm-1.4 .8zm0 .6zm0 .3zm.1 .2zm-.4 .3zm-.6 .5zm.4 .3zm1.3-.9zm1.4 1zm.6-.1zm1.8 1.6zm.9-.9zm.5-.5zm1 .5zm1.5 .2zm.3-1zm-.4-1.2zm-.4 0zm1-.1zm.8 .2zm.8 1zm-.4 .5zm0 .6zm1.8-.5zm1 .5zm1.3-2.2zm-1.3-.6zm-.1-1.1zm.4-.8zm-.2-.5zm-.1 0zm.2-.9zm-.6-.8zm.6-.4zm-.3-.7zm.3-.1zm.8 .6zm.2 1.3zm0 .6zm.8 1.6zm-1 .3zm-2.1 .8zm-.3 .1zm-.4-.3zm5-.1zm0-1.7zm-8.8-1.5zm-.3 .2zm-.4-.2zm-.2 .7zm-.3 .5zm-1.1 .5zm-.2-.5zm-.3-.1zm-.4 0zm.6-.4zm-.7-.5zm-.3 .2zm-1.1-.2zm-.6-1zm-1 .2zm-.6 .5zm-.5-.3zm-.3 .2zm.1 .3zm-.4-.4zm-.3 .4zm-1.3 1.3zm-1.3-.5zm-.3 1.2zm.6 .5zm-.1 .4zm-.7 0zm.8 .9zm-.2 .9zm-.7 .1zm-.2 0zm-.2 .3zm-.9-.2zm-.9-.3zm-.5 0zm.5-.8zm-1.8 .5zm.3 1.2zm-1.3 0zm-1.6-1.8zm-.4-.4zm.5-.9zm.8 .6zm1.7-.2zm4.7 4.4zm.8 .1zm0 .1zm.2 .5zm-.6 .3zm-.8 .1zm.5 1.1zm.3 .4zm.4 .3zm-.9 .6zm-.4 0zm2.4-.8zm.6-1.2zm.9 .4zm.8-1.8zm-2.2 5zm5.9-9.5zm.4-3.1zm.7-1zm-1.7-2.9zm-.3-.3zm.1-.1zm-.3-1.7zm-1.3 .2zm-.7 .1zm-.1-.6zm.3-.3zm-.8-.2zm-.3 .2zm-1.2-.4zm-.6-.4zm-.5 .6zm.2 .4zm.6 .2zm1.4 1.1zm.6 .5zm.1-.1zm.2 0zm-.1-.2zm.6-.1zm-.2-2.5zm-.1-.3zm0-.5zm-.2-.3zm.2-.9zm.3-.5zm-.4-.1zm-.6 .6zm-.4 .3zm-.6-.5zm-.4 .5zm-.3 .5zm.1 .2zm1.2 .6zm2.2-1.4zm.4 .1zm0 .3zm.2 .2zm0-1.2zm1.7-.2zm1 1.4zm2.4 1.9zm3.1-4.6zm1.5-.6zm1 .1zm0-.5zm1.1-2zm1.9-.9zm.2 1.1zm1.2 2zm1.3 .1zm2.9-4.2zm-.1-.9zm-1.2-.2zm1.1-3.2zm2-.5zm-1.2-1.7zm1.6-1zm1.6-.6zm.6 .4zm0-1.7zm.8-2zm.1-.8zm.7 0zm-1-1.1zm-1.3-.5zm-1 .1zm-.4-.5zm1.6-.6zm.3-.1zm.5 .2zm.3-.5zm.8-1.2zm.7 .9zm.3 .6zm.6-.3zm.3-.3zm-.2-.9zm.5-.6zm-.2-.9zm.1-.3zm.1-.5zm.2-.7zm1.4 1.3zm-1-3.5zm-2.4 2.2zm1.5 5.1zm.9 .9zm-1.3 2.9zm.7 .9zm.3 .7zm.7 1.3zm-.8 1.9zm-5.8-4.7zm-.5-.6zm1-.2zm-1.7-1.4zm-.4 .7zm-1.1-.1zm0-.4zm-.5 .3zm-.2 .2zm.1 .5zm.1 .5zm.1 .5zm-.6-.1zm-.1-.6zm-1 .5zm-1.2-.9zm-.7-.7zm-.7 .1zm0 .7zm.1 1.3zm.4 .4zm.5 .6zm.8 .1zm-.3 .7zm.8 .2zm1-.4zm.6-.7zm-.2-.3zm1.1-.4zm.7-.1zm-.1 .8zm.4 .5zm-1 .4zm-.2-.2zm-1.1 1.7zm-.2 0zm-.5 .2zm-.1 .2zm1.3-6.1zm0-.5zm-.8 0zm.7-1.4zm-.1-.1zm.7 .6zm.1 .1zm.3-1.1zm0-.1zm-.2 0zm0-.6zm.3-.8zm.6 .5zm0 1.2zm-2.6-1.9zm.2-1.4zm.4-.5zm-.8-.3zm.1-.8zm-.5-.1zm-1.2-1.7zm5.7-2.1zm-7.1 9.8zm.5 .5zm-5.5-.7zm-.8-.9zm-2.7 1.1zm-1.9 .6zm1.4 2.2zm.3-.2zm2.4-.8zm.8 .9zm-8.6 2.3zm-2.4 1.3zm-.6 1.7zm-1.2-.2zm-.6 .1zm-.6-.8zm.6-.6zm1 2.8zm0 0zm.5 .3zm.1 .6zm0 .4zm-.6 .6zm.1 .7zm-.1 .6zm-.9-.1zm.1-.6zm0-.4zm0-.1zm.1-.2zm-.6-.5zm.4-.4zm.3 .1zm.1-.2zm-.4-.5zm-2.3-.4zm-3 1.3zm-1 .7zm-.3-1.1zm-1-.4zm-1.5 1zm-.8-.2zm.4 1.1zm1.5 .4zm.3-.4zm0-.1zm-3.4-.7zm-1 0zm-.2-.3zm-.9 1.2zm1.6 .2zm-2.4-2.7zm-.8 .7zm-.6 1.9zm-.7 .6zm3.4-4zm-1.1-4.3zm-1.1-3.1zm1.8-2.3zm1.7-.4zm.3 0zm-.2 .4zm.3 .6zm.5 2zm-.4 1.2zm5.6-1.8zm.3 1.3zm1.5-2.3zm-.7-1zm4.3-1.1zm-2.1 14.9zm1.3 1.3zm-.4 .7zm.2 2.5zm6.4 .6zm.1 .2zm2.2-2.3zm4.7-.1zm.6 .7zm.4 .2zm-11.9 11.9zm-.1 0zm-.1-.1zm-1.4-.1zm0-.3zm0-.6zm-.9-.8zm-.8-.3zm.4-.5zm-1.7 1zm-.6-1.6zm.2-.2zm-10.1 8.4zm-2.6 2.2zm-.4 .8zm.5 .1zm.4 .2zm-.7 .9zm-1.5-.6zm-.2-.6zm-.4 .3zm-.4-.2zm-.6 1.2zm.1 .3zm1.6-2.3zm0-.5zm-.2-.1zm0-.1zm.9 0zm-3.5-5.5zm-2.4-1.8zm-.3-1.1zm-.9 .1zm-.5 2.6zm-.4 .4zm-1.7-2.3zm-.1-.8zm-1.5 .7zm-3.1-1.1zm-.3-.9zm-1.6-1.2zm.2-.5zm-.2 3.1zm.6 2.3zm-.7 1zm-.6 .6zm-1.2-1.6zm-1.5 .4zm-5.5 .4zm-.3-.6zm-1.7 .7zm-.3-.9zm3.5 3.9zm-9.3 4.5zm1.7 2.8zm-7-5.3zm-.9 .3zm.3-1.1zm.6-.8zm.5 .4zm-1.1-1.7zm1.3-.4zm1.6-3.1zm-5.2 5.2zm.3 1.2zm.4 0zm-5.1 3.2zm.2 2.4zm-4-1.8zm-2.8-1zm1.3-2.7zm-1.3-2.3zm.3-.5zm-1.2-2.3zm-4.6 1.1zm.1 .6zm-.5-1.2zm.8-3zm-2.4-2.4zm-6.9 1.1zm-.7 3.1zm-5.1 2.8zm-3 2zm-3.7-6zm-1.9-1.1zm5-.3zm.1-2.2zm0-.5zm2 .2zm-1.9-4.5zm-1-2.2zm-2.4 2.5zm-1.3 .6zm-1.7-1.1zm1.3-1.7zm15.5-2.3zm1.7-4.4zm2.7 1.7zm4.9-.4zm1.4-2.3zm-8.7-6.6zm-1.8 2.7zm-11-3.8zm-7.4-16.1zm3-1.8zm16.1-6.1zm8.1-5.9zm9.1 2.2zm1.3-.3zm-.1 1.7zm-3.5 6.8zm.1 .8zm4.4 1.7zm2.2 1.2zm1.1-.9zm1.9 1.4zm-.3 2.8zm1.3 .6zm.1 1zm.7 3.3zm2.6 4.5zm.2 2zm.1 .9zm1.4-.7zm.6 .1zm.8-1zm2.1-1.1zm2.8-2.6zm.9-2.1zm1.3 1zm1-1.3zm4.4 .2zm-.4 3.8zm4.8-3.5zm1.9 1.8zm1.9 1.9zm2.3-1.3zm-4.9-7zm-3.9-2.7zm-3.2-1zm-8.1 3.1zm-2.7 .3zm-4.6-9.6zm-7.6 9.8zm-3.5 3.8zm7.6 10.1zm.1 1.9zm2.9-2.1zm.2-2zm-11.5 31.2zm-8.4 1.2zm1.7 4.1zm-11.5 2.2zm-.2 .9zm44 4.9zm14-13zm.7-.5zm3.9-11.8zm-1-1.3zm.4-1.1zm6-25.4zm3.4-6.1zm-9.4-.4zm.5-12.2z"/>
<path id="q2u" d="M20.5 285.2zm4.7 2.8zm11.2 6.4zm12.6-3.9zm1.9-1zm-1 6.7zm-6.2-18.3zm-5.7 2.8zm-6.4-4.1zm29.6 3.4zm7.5 .5zm7.2-6.1zm-7.3-8.9zm-1.3-8.1zm21-.4zm10.7 3.3zm-2.6 6.2zm12.1 10.5zm4.3-3.9zm9.2-5.1zm-1-3zm-15.1-12.6zm-3 29zm15.1 6zm11.5 .6zm-3.9 12.8zm-13.6-1.5zm-57.4-60.4z"/>
<path id="qnl" d="M28.9 285zm.7-1.9zm.9 3.8zm12.3-8zm1.8 1.4zm5.1 15.5zm.9 .4zm0 .5zm.5 1.3zm2.5-1.2zm4.4 .9zm.5-1.4zm2.9-.6zm.9-.4zm-1.2-2.8zm3.1 .3zm.1-1.2zm.4-.6zm-1-.3zm-2.3 25.2zm-1.2 0zm2.4 2zm2.3 1.3zm1.2-.9zm1.3 2.7zm.7 1.5zm1.3 .5zm.7 0zm-.5-1.1zm-.4-1zm2.4 .3zm1 .5zm-1.2 3.8zm-1.3-.5zm-.7-.2zm-.7 .1zm-2.4-2.3zm-.5-1zm-1.1 1.1zm-.3 1.6zm-3.3-4.1zm-1.6-.6zm10-2.4zm.5 .1zm6.7 8.6zm.1 3.7zm1.4 1.4zm1.6-1.3zm3 3.2zm1.5 .4zm-2.3 1zm14.8-16.4zm1.9 .3zm.4-1.2zm-.3-.7zm3 3.3zm-.2 1.3zm2.1-4.6zm.6-.6zm.7 0zm10.2-15.4zm-.7-.9zm3.7-4.6zm8.8 2.8zm10.5-13.5zm-2.4-1.8zm10.1-11.2zm-30.4 5.4zm-1.9-5.1zm-4.7 5.8zm-5.4-1.9zm-4.2-.2zm-1.8-.2zm0-.6zm-9.1-27.2zm.3-.2zm-3.1-.1zm-6.8-10.3zm-1.1-.6zm.4-1.2zm-4.4 1.5zm-1.5 6.4zm-1.1-.2zm.1 1.5zm-.5 .6zm.7 .6zm-1.5 1.6zm-.6 .1zm.4 1.5zm-2.2-21zm-.3-1.6zm-.9 .1zm-1 1.3zm-19.4 11.2zm-1.8-.6zm-.6 1.5zm-1-2.2zm-4.2-9.1zm0-1.2zm2-1.2zm.3-.6zm1.3 34.6zm-.7 .9zm.1 1.3zm-1.3 .5zm1.3 1zm.7-.1zm-.9 1.3zm46.8-30.2zm2.4 .7zm.7-1.1zm7.3 3.2zm1.4 .7zm.3-.2zm8.3-11zm.5-1.5zm1.8 2.2zm-5-4zm-8.2-6.1zm.5-1.2zm-2 .7zm-1.1 .1zm-1.5-.3zm-1.6-2.8zm-1.9-.4zm4.7-.4zm-13.5-15.1zm1.6-2zm.5-.6zm38.6 9.7zm1.9 .2zm.1 1.1zm-3.5 13.4zm-.4 2.1zm2.6 .1zm.2 .1zm-4.8 2.6zm-.9-1.8zm-.5-.8zm-.7-1.2zm.9 11.9zm-2.1 1.6zm-.6 .3zm-.1 2.6zm.7 2zm.9-.5zm1.5 .4zm-2.4 1.2zm-1.6 3.2zm0 .2zm.9 .8zm24-14zm.8 .7zm1.3-.1zm-.7-1.3zm.1-.5zm.4-3.2zm0-.1zm1.5-.3zm.2 .6zm-.2 .1zm-.1-1.7zm4.5-2zm.9 1.2zm-.4 .4zm0 .2zm1.3-1.1zm36.8 56.6zm0 .8zm1.7 .4zm.9-1.2zm.5-.4zm.4-.3zm.3 .4zm-.5 .5zm-.5-1.4zm0-.3zm-1.2 .6zm.2 .3zm-48.1 38.9z"/>
<path id="qnm" d="M27.9 280.8zm.4-.8zm-.4 4.9zm17-6.7zm-3-13.8zm-1.1-28.7zm-3.5-7.6zm28.6-4zm8.2 13.8zm-4.4 8.3zm-.8-.1zm17.3 .3zm.1 1.1zm1.9 .2zm8.3-12.2zm-.1-1.4zm-7-1.5zm3.1-15.3zm-2.9-3.1zm1.7-1.7zm28 56.4zm-.4 1.2zm1.2-.2zm2.8-.5zm0-.2zm-8.5 3.2zm-1.7 .3zm20.5 7.4zm2.1 .4zm.3 1.8zm.2 .4zm.4 .8zm.8-.5zm.5 .5zm7.3-10.4zm1.3 0zm.8-.3zm-2.5-4zm-2.2-.5zm10.2-5.8zm1.5 .8zm.4-.1zm.2 .1zm-.1-.4zm-.1 1.1zm2.4-2.1zm2.7-6.5zm1.7 .6zm.6-.5zm.5 .9zm1.1 .6zm-6-3.4zm6.1 11.5zm.5 .5zm-.7 1.9zm.1 .2zm23.2 12.7zm-47.3 32.8zm-1.5 3.5zm-1.4 .8zm-9.6-19.9zm-1.3-.8zm-2.3-.5zm-.3-.9zm-3.4 1.1zm-1.9-1zm3.3 3zm-4.9 3.3zm0 .8zm.3 .6zm1 .6zm-2.4-2.3zm-43.7 15.7zm-2.4 .5zm-1.1-1.8zm-1.4 .7zm0 2.6zm2.6 1.1zm0 .6zm-.6 1zm-1.2 .2zm-.9 1.2zm3.4-.7zm.2 .6zm.2 2.4zm1.7-.4zm1.3 .6zm-.2 1.1zm4.8 3.4zm-15-8.2zm-1.1-6z"/>
<path id="qnu" d="M44.8 279.1zm38.2 53.9zm.3 0zm.7 .2zm-.7 .7zm-.5 .4zm-.3-.9zm30.1-90.2zm1.4-6.5zm68.8 43.6zm1.8 .1zm.2-.1zm.4 .2zm1.2 .1zm.8-.7zm.5-.1zm.6 .4zm.1 .5zm-1.5-1.3zm-.6 .1zm-.3-1.1zm-1.5 .6zm3.4-.7zm-.1-.4z"/>
<path id="q1l" d="M112.2 238.6zm.1 1zm1.2 0zm1 .3zm0-1.1zm.6 0zm.8 .3zm-.1-1.1zm-.6-.8zm-.1-.4zm0-.1zm.6 0zm.1-.3zm.1-.2zm.2-.1zm1 .3zm.3 .5zm-.3 .4zm.4 .8zm.2 1.2zm.6 .9zm1.2-.4zm0-.2zm1.5 .4zm.6 .7zm-.3 .2zm2.1-.3zm.8-.3zm-.7-.6zm-.6-1zm.5-1.4zm-.1-.3zm-.5-.4zm0-.6zm-1.5 0zm-.9-.3zm-.3-1.1zm-.3-.4zm0-1.4zm1.5-.1zm.2 .9zm-.3 .3zm.1 .8zm-.1 .1zm1.1-1.4zm0-.3zm.3-.1zm.4 .3zm-.2 .5zm1-.1zm.2-.2zm.2 0zm.1 .1zm.1-.2zm.4 .6zm.4-.1zm-.1-.8zm.7 .1zm0-.3zm.3-.6zm-1.6-.5zm1-1.2zm.6-1.7zm-.1-.6zm-1.1-.3zm-.6 1zm-1.1 .7zm-.6-.6zm-.9 .8zm-1.4 0zm-.7-1.9zm-.7-.2zm0-.8zm.2 0zm1.1-.3zm.3-.8zm-1.6-.1zm-.7-.8zm-.8-.7zm.2-3.1zm1.1-.6zm-.4-.5zm1.4-.4zm.1-1.4zm3.7 .3zm1.5 .8zm-.7 1.1zm1 .4zm.1 .1zm0 .1zm.1 .3zm.4 1zm1.2-.4zm0-.4zm.8-.4zm1.6 .2zm.7 .3zm.4-.5zm-.3-.6zm.2-.1zm.5-1.7zm-.5-.2zm-2.5-.3zm-1.4 1.2zm-.3 .4zm-.1 .6zm-1.3 3.2zm1.4 1.1zm-.9 1.1zm.3 .4zm-.9-.3zm-1.2 .7zm-.5 1zm-1.1-.3zm0 .6zm-.4 0zm0 3.8zm-2.6-.3zm-.3-.2zm-.7 2.1zm-1.4 .2zm-.3-.7zm-1.3 1zm0 .5zm-.1 .9zm-.5-.1zm-.5 1.2zm.4 .5zm.1 .3zm.3-3.7zm-1.8 .3zm-.1-.4zm5.9 3.5zm.6 1zm.6 .1zm1 .4zm.6-.3zm3.4 .3zm.6 0zm.5 1.1zm.6 1zm1.1-.9zm1 .5zm.3 .3zm-.3 .2zm.3 .7zm-.7 .3zm-.3-.6zm1.4-.9zm1.5 .3zm.4-.3zm0 0zm-.3-.4zm-.1 1.5zm.1 .3zm2.2 1.5zm1.9 .4zm4.4 2zm1.3 .5zm-.2 .4zm-1 .5zm-.1 1zm6.7-1.4zm.4 1.7zm1.9-1.1zm.2-.2zm.2 .2zm.4-.3zm.6 1zm-.3 .7zm0 .3zm-.4-.1zm.5-3.1zm-.1-.1zm1.8 .3zm2.2-.9zm1.2 .5zm.9-.9zm-7.2-.8zm-.5-2.3zm.2-1.2zm-1.9-1.6zm-.9-1.2zm-.6 .3zm-.3-.1zm0-.5zm-.3-.1zm-1.3 0zm-1.7-.5zm-.3 .1zm-.3 0zm.4-1zm.1-.4zm0-.5zm.7-.7zm.7 0zm.1 .4zm.4 .1zm.4-.7zm.2-.3zm.2 .1zm-.7-.9zm.3-.3zm-.3-.2zm.2-.2zm1.1-.2zm.1-.3zm.3 .1zm.1 .5zm-.1 .3zm-.6-1.1zm.8-.3zm1.6 .6zm-.4 3.5zm-.7 .4zm-1.7-.2zm-3.4 .2zm-.6-2.2zm-.2-.3zm.3-.2zm-.4-.5zm-.4 0zm-.2 0zm-.2 1zm-1.1 .8zm.6 .5zm-.1 .7zm-1.3-.9zm-.8-2zm.7-.7zm.2 .1zm0-.3zm.2-.6zm-.9 .4zm-.8-1.4zm.8-.7zm.4 0zm.1 .2zm.2 .2zm0 .1zm.4 .1zm.2 .1zm.6 .7zm.3 .3zm-.2 .6zm.9-1.3zm1 1.7zm1.5 .6zm.5-.8zm1.2-2.6zm-1.1-.6zm.3-.7zm.3-.4zm-.8-.6zm0-.3zm-.3-.2zm-.7-.4zm-.3-.1zm.1 .5zm-.2 .1zm-.5 .4zm.9 .2zm-1.5-1zm-.5-1zm.4-.8zm-.3-.9zm-.8 .2zm-.8-.5zm-.3 .1zm-.4-.5zm-.1-.7zm.5-.2zm-.7-.7zm0-.2zm-.5 .5zm-1.9 .7zm-.1-1.1zm1 2.4zm1 .2zm.2 .5zm2.2-2.2zm.4 .1zm.3-.3zm.4 .4zm.6 1.1zm.8-.3zm.5 1.7zm0 .3zm.8 0zm1.7-1.5zm1.2 .1zm-.1-.6zm1.1-.8zm.3-.3zm1 0zm.7 .1zm.2 .3zm-.2-.7zm.6-.3zm-.4-.6zm-.4-.5zm-.1-.8zm-.8-.1zm-.1 .1zm-.1-.6zm.2-.4zm-.2-.5zm-.7-.1zm-.3 .5zm-.3 .4zm-.6 .7zm.2 1zm.6-.3zm.2-.2zm-.3 1zm-.3 .2zm.1 .4zm-1.5-.8zm-.2 .1zm.3-.9zm-2.1-1zm0-.1zm-.2-.1zm-.7-.5zm-.4 .4zm.7-2.2zm-.6-.8zm-.5-.6zm-.2 1.1zm2.4 .5zm1.3 .4zm1.7-.6zm.1 .1zm.7-.5zm0-.4zm1.1-1.1zm.3-1zm.4 .2zm.1 .1zm.1-.2zm.6 .3zm.2 0zm-.5 .8zm1.3-.3zm.9 .4zm.2-1.7zm-.1-.6zm.6-.4zm-.1-.4zm-.1-.6zm-.6-.3zm.2-.6zm-.2-.9zm.9-.1zm.3-.3zm.1 .7zm.2 .1zm.1 .9zm0 0zm.2 .2zm.3 0zm.8 .1zm.2-.2zm1.7 .4zm.1 .7zm-.9 1zm-.7-.3zm.8 1.1zm-2.7-1.5zm-.1 .1zm-.2 .6zm-1.7-.8zm-.8-.6zm-.1-.4zm-.2-.2zm-.1-1.1zm-1.2-.5zm-.6-.1zm0 .6zm-1.2 1.3zm-1-.6zm2.6 1.8zm.1 0zm.3 .3zm1.1-.5zm2.4-3.9zm.8-.4zm.9 0zm-.2-.7zm-.1-1.2zm1.3 2.3zm.8 .1zm.8-.8zm.6 .8zm-.1 1.2zm-.6 .3zm.1 .7zm1.8-.9zm.3 .2zm-.4-.9zm-.1-1.4zm0-.2zm-.1-1.2zm-1.3-.4zm-.4-.3zm-2.1 3.4zm-3.4-5.8zm-12 6.7zm1.5 2.9zm-.1 .3zm-.9 7.7zm-.4 .6zm1.8-.2zm-1.1 6.1zm-.8 0zm-.3 .7zm-.4 .2zm.6 .3zm.6 0zm-1.8-.8zm-.6 .4zm-1.8 .6zm-.1 .1zm.4 .5zm-.2 .7zm-.5 .2zm.3 .3zm-.3 .5zm-.7 0zm-.1-.3zm0-.2zm-.2 0zm0 0zm0-.2zm-.8 0zm-.1 .1zm-.5-.1zm-.2-.3zm-.6 .3zm-.1 .2zm-.4 .4zm-.5 .2zm-.5 .2zm-.4 .8zm.2 .2zm.6-.1zm-1.1 .7zm-.2-.2zm-.8 1.5zm-1.2 .9zm-.1 .3zm-.2 .2zm-.7 .7zm-.5-1zm1.9 1.9zm.9 .8zm.5 .5zm1 .3zm.4 .2zm-.6-1.7zm.4-.9zm.4 .3zm-.9-.8zm1.9-.3zm1-.7zm.6-1.3zm-.2-.5zm-.3-.5zm.9-.4zm.5 .3zm.2 .2zm.2-.2zm.2 .4zm0 .4zm-.5 .2zm0 .6zm.9 0zm.8-1.2zm-.3-.3zm-1.4-1zm-.6-.4zm-.7-.1zm-.1 .2zm-.3 0zm-2.9-1zm-.6 .3zm-.3-.1zm-.5 0zm1.5-1.2zm-.4-.7zm1.3-.6zm.2-.4zm1.5-.4zm-3.5-.9zm1.5-3.4zm.5 .2zm1.1-.2zm2.5-4.1zm-3.9-2.3zm-.6 .3zm0-.9zm-.8-.2zm-.5 .7zm-.3 .2zm-.2 .3zm-.9-.9zm0-.6zm.8-.3zm2.2-1.1zm-7-3.4zm-1.5 1.7zm-.9-.3zm1.1 1.8zm-4 1.6zm5.4 7.1zm.8 1.6zm-1.8-.1zm10.3 14.5zm10.1 1.5zm.7-.1zm.9-.1zm1.4-.5zm0 0zm2.6-15.2zm0-1.2zm1.6 .3zm1.3-.7zm.3-.2zm-.1-1.4zm-.5-.1zm-2.2 .5zm-.5-.4zm-.4-.1zm1.2-2.4zm-.1-.4zm.5-.3zm-.4-.7zm-.2 .1zm-.5 .3zm2.2 .5zm.4-.1zm-.3-.7zm-30.8 25.2zm-2-.4zm-.2 .1zm-.3 .1zm-.6 0zm-.1 1zm.6 .1zm-2.4 .4zm-.1-.2zm-1-1.2zm.3 2.9zm-.5 .3zm1.6 0zm1.2 2.8z"/>
<path id="q1m" d="M115.7 244.2zm.9 4.3zm-.2-9.6zm1-1.9zm4.6-4zm2.3 .2zm2.1 3.1zm-1.8 2.7zm5.8 2.5zm2.7-7.3zm.4-3.3zm3.4-2.2zm1.6-1.8zm.1-1.6zm-.6-1zm-.7-.1zm3-1.1zm1.1 3.3zm.5 2.4zm.7 1.9zm-1 1zm-3.8 .8zm7.6 5.2zm2-13.2zm-.3-6.1zm-1.7 .1zm3.2-3.1zm.7-4.2zm-1-3.7zm-9.9 2.8zm-11.7 6.4zm.6 1.1zm-.2 2.7zm-6.3 3.5zm-.5 .4zm-1.6-1.4zm1-1.1zm.5 6.6zm4 .2zm-1.6-17.7z"/>
<path id="q1u" d="M114.9 242.7zm.8-2.4zm5.9-2.1zm.4 4.2zm8-3.2zm2.9-9.2zm5.1-5.9zm2 2.5zm2.2-.1zm2.5 6.1zm1.1-.5zm-2.8 8zm-14-22.7z"/>
<path id="q0l" d="M20 200zm1.5 .4zm-.5 1.8zm3.4 .9zm0 2.1zm.5 2.2zm2.4 2.1zm1.1-1.2zm.7-.7zm-.6-.3zm1.4-1.2zm-.2-.6zm-.1-.3zm.6 0zm.7 .6zm.2 .6zm-.4 .8zm.7 .9zm-.1 .2zm1.1-.7zm.4-.3zm-.2-.5zm-.3-.3zm1-1.6zm-.7-.8zm.5-1.2zm1.5-.2zm.8-.5zm.1-1zm-1.6-.5zm0-.7zm-.2-.2zm-.3-.4zm-.4-.3zm-1.2 .6zm-1.4 .1zm0-1zm.8-.7zm.3-1zm1.3 .5zm.1-1.9zm1.7 1zm-.4-2.5zm-1.4-.9zm2.2-1zm-.9-1.2zm-1.9-1.5zm-3.3 .6zm-.8 .6zm0 .9zm1.2 .8zm.5 2.3zm1.2 .2zm-4.4-3.1zm-1.1-1.4zm-4.8 .2zm-.4 3.8zm3 .5zm1.3 1.8zm1.5 .9zm3.3 3zm.4 3.6zm4.6 1.8zm.5-.4zm.9-.8zm1.1 .8zm.6-.3zm.2-.1zm.1 .2zm-.8 1.6zm-.6 2.2zm.9 1.1zm.7 .5zm-.6 .9zm-.5-.2zm1 .9zm-.5 .8zm.1 .4zm-.7 1zm-.4 .4zm.7 .9zm-1.1 3zm.8 1.2zm.7 1zm1.2-1zm.3-1zm3.1 2.1zm1.6-2.5zm2.7 1.6zm1.1-1.1zm.1-2zm1.1-1.1zm-.4-.7zm.1-.8zm-.9-.5zm-.5-1.4zm.8-1.3zm-.5-.6zm1.6-1.1zm.4 .9zm0 1.7zm2.4-.4zm.6-1.2zm-.7-.2zm.7-.8zm.3-.3zm-.3-.2zm0-.2zm-.1-.6zm.6 0zm.4-.1zm.5-.2zm-.5-.7zm-1.2-.3zm-.1 .4zm-.7 1.5zm-.1 0zm.3 .2zm-1.3-1.8zm.3-1.7zm.9-1.6zm.2-.5zm-.4-.3zm-.7-.1zm-.9-1zm-1.8 .5zm.1 .6zm-1.4 1.8zm-.6 1.6zm.8 1.2zm1.6-1.3zm-3.6-.7zm-.5 .1zm0-.8zm-.8-.9zm.4-1.6zm1.1 .7zm-2.9-.2zm-2.3-.3zm.7 3.3zm3.6 1.9zm.7 1.3zm-5.3 3.2zm-3.9-1.9zm-.2-.4zm-1.2-.7zm-.5-.7zm.7-.8zm.2-1.3zm-2.5 4.9zm0 1.2zm0 1.3zm-1 .1zm-1 .9zm-1.1 .5zm-2.1-.6zm0-.1zm.6-2zm-1.3 0zm-1.3-1.1zm2.3-.7zm1.5-.4zm0-.2zm.1 .5zm1.5 1.6zm2.2 2.9zm-.6 1.1zm.9 1.7zm3 2.7zm2.4 2.1zm-.1 .4zm-4.9-.4zm.8-10.9zm8.6-11.6zm.4-1.7zm-.6-1.9zm-.5-.3zm-.9 .6zm-1.2-.1zm-1.2 .1zm0 1.1zm.7 .1zm3.7-2.6zm1.9-2.6zm1-2.6zm-1.7-1.4zm1.7-2zm-4.4-.8zm-1.3-.2zm-1.8-.2zm2.7 5.6zm5.5 5.7zm2.7-2zm1.3 1.8zm-.6 .6zm3.4 .1zm1.4 .4zm.6-.1zm-1.3-3.5zm0-.9zm-.4-.5zm-2.4-1.4zm-.6-.3zm-.6 .3zm-1-1.3zm1-.5zm3.8-5.7zm.8-1.8zm2.2 4.1zm2.9 1.1zm.5 1.2zm-.3 3.5zm.8 1.1zm-1.6 .9zm0 0zm-.5 .2zm1.5 4.5zm-.8 .3zm3.5-2zm.9 2.6zm-.2 1.9zm-.1 .2zm1.4 .4zm1 1.2zm.1 .6zm-.8 .2zm-.3-.2zm.6 1.1zm.9 .1zm-1.9 .5zm-.2 .4zm0-.8zm-1.2-1.5zm-1.3 .7zm-1.4 1.5zm-1.4 .9zm.1 .4zm-1.1-.3zm-.2-.3zm-1.2 0zm-.7 1.1zm1 .4zm-.1 1.6zm.3 .3zm1.6-.3zm-.1-.5zm2-.9zm2.2-.4zm.2-.2zm-.5-.7zm.8 1.6zm.4 .8zm.2 0zm.7 .5zm.6 .1zm.1 .7zm-.7 .7zm-1 .7zm-.5 .6zm.4 2.8zm1.2 .9zm-.6 .6zm-.1 .4zm-.5 1.2zm-.5 0zm2.2 .5zm-.8 3.1zm.6 2zm5.3-7.5zm1.1 .2zm-.4-1.1zm1.6-.3zm-1.9-1.7zm-1.3-1.5zm1.4-1.3zm.3-2zm-.4-.8zm-1.4-.2zm-.3-.2zm-1.5-.5zm-.2 .7zm-.7-.4zm-.3-.5zm-.4 0zm-.2 .1zm-1 1.3zm.1 .5zm-.6-.7zm-1.3 1.2zm3.7-.4zm.2 0zm-.1-.4zm.8 .4zm-.3 3.1zm-.9 1.3zm1.3 .4zm1.3 1.5zm4.2-4.3zm.9-.9zm1.7-.7zm1.6-.9zm.9 .4zm-.1-2.7zm.5-.2zm-1.3-1.4zm-.7-1.1zm-1.7 .2zm-.4-.7zm-.7 .3zm.4 .8zm-.9 .9zm.8 .7zm.8 1.8zm-2.9-.9zm-.2 .3zm-1.4-.8zm-1-.9zm-.8-2.1zm.2-1.2zm.5-.5zm.8 0zm.6 .5zm-.9-1.4zm.7-.6zm-1.3-.7zm-.8 1.3zm-.9 1.3zm-1.5-4.1zm2.7-.4zm2.5-.1zm.7-3zm.1-.9zm1.1-.6zm-.5-1.8zm-2.4 .9zm-1.2 1.5zm-.8 1.1zm-2.9 .6zm-.6-5.5zm-.7-2.2zm-.7-3.1zm-1-.2zm2.3-4zm1.7-.2zm.8-.6zm.5 2.3zm1.6-4zm2.3-.4zm-2.9-2zm4 7.4zm.3 1.9zm-3.7 2.7zm-.8 .3zm.2 .9zm10.4 2.4zm1.9 6.6zm1.4 1.4zm-.5 1.2zm-1.1 .2zm-.8 .5zm0 .3zm.4 .3zm.4 .4zm.3-.2zm-1.7 0zm-.8 1.5zm.5 1.2zm2.4-.8zm.5 .3zm1-.2zm1.6-.4zm1.4-1.1zm.5 2.5zm2.7-3.5zm1.3 .3zm.8-.2zm1.5-.4zm2.6-2zm2.5-.3zm.1 .9zm-.2 .9zm.3 .6zm.9-1.1zm3.7-4.1zm-.3-1.2zm1.6 .5zm0 .8zm.5 2.2zm.9-.3zm2.3-2.5zm-1.9-1.7zm-.7-1.7zm-5.3-4.2zm-4.8-1.7zm-5.7 2.2zm-.2-.4zm-1 4.8zm2 1.4zm2-.7zm1.1 .5zm.3 .6zm-1.5 1.3zm-4.3 .3zm.3 1.5zm-.3 1.9zm.5 .6zm.4-.2zm1-.3zm2.5 4.8zm-.5 1.3zm4.3 .5zm-11.2-9.7zm-.5 .5zm-8.6 3.4zm-.2 .7zm-1.9-.4zm-1.2 .8zm.1 1.6zm.1 .5zm-.9 .9zm.7 1zm2.8 6.8zm.5 .4zm1.3-.7zm4.4-1.4zm-6.2 6.6zm-15.1-3.5zm-2.8 1zm.4 2.4zm-3.8-.3zm-.9-.7zm.2-.5zm-1.1-.9zm-1 1.3zm3.5-2.3zm-.2-.9zm-.3 .1zm-.7-.6zm2.2-2zm2.2-5zm1.2-1.9zm1.2 .3zm-6.8 1.3zm-5.1-23.3zm.2-3zm27.3-10.6zm2.8 6.2zm.2 1.3zm1.2 5.5zm7.1-2.3zm1.4-1.4zm2.9 1.4zm2.1 0zm-3 2.9zm8.1-3.1zm12.8 9zm-90 9.9z"/>
<path id="q0m" d="M21.5 202.2zm2.1 1.9zm4.8 3.1zm-.6 1.4zm3.1 2.6zm-.4 2zm-4.8 5.6zm8.5 4.9zm2.6 2.7zm4.3-7.8zm-2.1-2.4zm8.8-.5zm1.7-6.7zm.1-.1zm.6-.2zm6.2-.3zm2.8-.5zm4.1 .5zm1.4-.3zm.2 .9zm1.4-1.1zm-1.6-2.5zm3 5.2zm-.1 1.5zm-2.6 .6zm-1.1-1.1zm0 5.6zm-1.9 1.3zm6.5-2zm.9 0zm5.9-3.2zm-1.2-7.4zm-3.2-3zm6.6-1.4zm.9 .1zm.4-.8zm1.1 1.1zm2.1 3zm4.9-2.8zm-.6-1.9zm-1-4.8zm.4-3.2zm3 2.5zm1.3-.1zm.2 2.5zm6.5 .9zm.1 2.8zm5.3-4.5zm.6 .7zm7.9-3.5zm-14.6-6.8zm-.9-5.3zm-6.2-1.8zm-1.3-1.3zm-5.4-.8zm-.6-.3zm-2.6 6.9zm3.5 5.1zm-3.7 1.8zm-2.1-.9zm1.6 4.8zm.6 .1zm11.3-6.2zm-1 19.5zm-24.2-16.6zm-4 .1zm-1.1 4.7zm-.5 .1zm-2.9-.3zm-1.7-2.4zm-.6-1.7zm-3.3 2.1zm-6-3.1zm.5-3.2zm.5-1.4zm.7 .1zm-.5-1.6zm2.7 2.1zm6.9-.1zm1.3 .1zm2.2-2.6zm1.6-1.2zm-.2-.3zm0-2.2zm2.8-2.2zm1.3-.7zm-.4 2.2zm3.4-.7zm2.8 .9zm-.8-3.3zm1.9-.3zm.2 .4zm-.8 7.1zm-3.5 .2zm-1.7 1.8zm-4.3-9.7zm-5.3 .8zm-4.4 2.7zm-16.2 9.8zm-2.9 2.2zm-1.1-1.1zm-3.7 3.1zm.5 1.2zm.4 1.5zm1 1.6zm.8-.1zm.6-1.1zm1.5 3.9zm3.8 .8zm1.1-1.2zm2.9-1.4zm.5 1.9zm1.9 .1zm0 .8zm0 .1zm-3.5 1.9zm-2.7 .1zm5.9-6.3zm0-1zm8.7 4.9zm-25.7-8.2zm-2.3-1.1z"/>
<path id="q0u" d="M17.7 193.1zm1.7 2.2zm2.1-.2zm.4 .6zm.8 .2zm.3 .8zm.1 .2zm.9-1zm.9-1zm.5 1.2zm.8 1.3zm0 .1zm.5-.4zm.3-.5zm.1-.3zm1.2-.3zm.5-.7zm.1-.1zm.4-.5zm-.1-.4zm.4-.4zm.5 .5zm-.2 .5zm.8-.3zm.4 .2zm-.3 .5zm-.9 .9zm.2 .6zm-.4 1.2zm-.5 .4zm-.1 .1zm.4 1zm.4-.1zm1.1 .4zm.5-.7zm0-.4zm.7 .4zm.2-.1zm.3-.9zm.1-.2zm-.1-.1zm.5-.5zm.3 .3zm.3-.1zm-.5 .8zm.2 .2zm.5 .3zm0 0zm.3 .5zm0 .1zm-.1 0zm.1 .6zm-.5 0zm-.1 .6zm.5-.1zm.4 0zm.2 0zm-.6 .6zm.2 .9zm-1.5 0zm-.4 .1zm1 1.5zm.6 .3zm.9-.1zm.8 .7zm.6 0zm.6 .2zm.1-.7zm-.2-.3zm.7-.8zm1.2-.9zm-.4-.5zm-1.2-1.1zm.7-1.3zm.6-.2zm.3-.2zm.2-.3zm.7 .2zm.4 .5zm.5-1.2zm.8-.9zm-.3-.9zm.2-.2zm.9 .2zm.3 .5zm.2-.2zm.4-.2zm.2 .6zm.3 1zm0 .1zm-.1 .4zm-.6 .7zm-.3 1.1zm-.3 .5zm.7 .5zm.2-.3zm0 1.6zm-.1 .7zm.5 .1zm.1 .4zm.4 0zm-.2 .4zm.5 .5zm.3-.4zm-.1-.8zm.2-.4zm0-.2zm0-.1zm-.6-.1zm-.1 .4zm-1.5 1.1zm.1 .5zm-.8-1.5zm0-.2zm.3 0zm-.8-.1zm-.9 1.8zm-.6 .7zm0 .1zm-.3-.2zm-.8-.1zm-.9 .3zm-.6 .7zm.3 .8zm-.7 .4zm-.9-1zm-.8 .2zm-.3-.1zm-.5 .1zm-.1 .3zm-.3-.8zm.4-.1zm-.7-.2zm-.8 .8zm-.6 .1zm.1 .3zm-.5 .4zm-.2-.2zm-.2 .1zm0 1zm-.3 .3zm-.2 .7zm-.4 1.4zm1.2 1.3zm1 .1zm.6 .4zm1-.6zm.2 0zm2-.5zm.1-1.1zm-.6-.2zm-1.1-.3zm-.6-.5zm-.2-.4zm.4-.6zm.2-.1zm.2-.2zm.2 .5zm0 .1zm.4 0zm.4 0zm.3 .1zm.1 0zm.6 .5zm.4 .2zm1.1-.9zm-.2-.7zm1-.6zm.5-.3zm-.2-.4zm.1 1.6zm.9-.2zm.3 .4zm.3-.7zm1.4 1.7zm1-.3zm-.1-.5zm.7 .8zm.7 .6zm-.4 .3zm.8 .4zm.4-.3zm.6 .6zm.6 .3zm-.7 .9zm1.8 .9zm.7-1.2zm-.1-.1zm.1-.4zm0-.6zm-.3-.9zm1-.8zm.4 0zm.2-.6zm.5-.5zm-.4-.3zm.3-.5zm.1 0zm0-.1zm-.3-.4zm-.4-.8zm.3-.9zm0-.2zm-.5-.7zm-.5 0zm-.1-.7zm-.8-.9zm1.1-.4zm.5-1zm.6 .2zm.3-1.1zm0-.4zm-.4 .3zm-1.3-1.6zm-.3 .1zm0-.4zm0-.7zm.1-.1zm-.2-.3zm.3-.1zm1 .2zm.3 .4zm.3-.1zm0-1zm.9-.3zm.1-.4zm.3-.8zm0-.2zm-.4 .1zm-1 0zm-.2-.3zm.8-.8zm-1-.5zm.2-.5zm.4-.8zm-.5-.2zm-.2 0zm-.3 .2zm-.3 .2zm-1-.3zm-.1 .2zm-1.1 1.2zm-.9-.1zm-.5 .2zm-.1-.1zm.2 .3zm-.2 1.3zm0 .9zm-1.1 0zm.2 1zm-.3 1.6zm-.3 1zm.6 .9zm1.5 .9zm1.2-1.3zm.1-.5zm.5 .2zm-.8-1.9zm-.8-.7zm1.5-1.6zm.6 .2zm.2-1zm2.5-2.3zm1.2-.2zm.9-.2zm.5 .3zm.8-.6zm-.8-1zm-.3 .1zm0-.8zm-.9 0zm-.4 .2zm.4 .7zm.1 .4zm-.5 0zm-.7-.4zm-.4 0zm-1-.1zm-.7-.3zm.3-.4zm-.2-1zm-.1-.2zm.3 .1zm-.1-1zm-1-.3zm-1.2 .9zm-.5-.1zm-.6 0zm0-.1zm.1 .8zm1 1.3zm-2.4 .7zm-.4 .7zm-.1 .2zm-.4 .5zm.4 .3zm-1.3-.3zm-.4 .1zm-.8-.5zm-.2 .8zm-.2 .7zm.6 .8zm.4 .1zm.6 .1zm-.5 .6zm-.7 .2zm-.1-.3zm-.9-.1zm-.4 .1zm-.5 .4zm.3 .3zm-.4 .2zm-.5 .3zm-1.2-.7zm.9-1.1zm.3-.7zm.7 0zm.1-.3zm.7-1zm1.2-1.2zm1 .2zm.9-.4zm.1-.6zm-.1-.2zm-.1-.3zm0-.1zm-.9 .5zm-.2-.3zm-.4-.5zm-.1-.8zm.3-.2zm.9-.7zm0-.2zm.9-.4zm-.1-1.1zm-.6-.2zm-.2 .5zm-.2-1.1zm.6-.4zm.6-.4zm.4-.2zm-.3-.6zm-.6 .4zm-1.2 .3zm-.1 0zm-.2 .5zm-.2 .3zm-.5-.5zm.2-.3zm-.7-.1zm.7-1zm-1.3-1.5zm-.3 .2zm-.3 0zm-.1-.1zm-.7-.1zm0 .9zm.2 .2zm-.5 .2zm.8 1.3zm-.9 .6zm.5 1zm1.4 .1zm.2-.3zm-.3 1.1zm1.1 .6zm.6-1.4zm2.4-.8zm.4-.3zm.1 0zm.2-.3zm.3 .1zm.5 0zm-.2-1.1zm-.7 0zm0-1.4zm-.5-.4zm.1-.3zm-.4-.4zm-.4-.4zm.2-.8zm.2-.4zm.6 .5zm.3 .2zm1.3 .6zm.7-.9zm0-.8zm.5-1.2zm1.8 .9zm-.1 .3zm1.1 .5zm.3 .3zm-.4 .5zm-.2 .3zm.3 .2zm-.8 .2zm-1.2 1.4zm-1.7-.3zm0-.3zm-.3 1.5zm.8 1.5zm.1 1zm-.5 .6zm-.8 .1zm-.2-.6zm2.5-.9zm1.6 .9zm2.3-.3zm.7-1.3zm.9 .2zm.8 .5zm.4-.1zm-.1 .6zm.7 .3zm.2-.2zm.1 1.1zm-.4 .1zm-.5 1zm-.8 .2zm-.3-.8zm0-.7zm-.1-.2zm-.9 .9zm-.3 .7zm3.4 1.9zm-.5 .8zm.6 .3zm-.1 .3zm.8 .5zm-.7 .5zm1 .8zm.9-.2zm.1 .1zm0 .4zm.1 0zm-.2 .7zm.1 .1zm-.3 .3zm-.4-.4zm-1.2-.4zm-.5 .3zm-1 .1zm-.3 .1zm-.4 .5zm.1 .5zm.9 1zm1.1-.5zm.9-.3zm1-.1zm.3-.2zm.7-.9zm.1-.4zm0-.4zm.3 .1zm-.1-.5zm.4-.4zm.2 .2zm-.1-.7zm.4-1zm.6-1.2zm-1.2-.9zm-.3-.6zm.3-.4zm1.2-.1zm.8-.4zm.2-.1zm-.3-.2zm.3-.2zm.2-.2zm.5-.2zm-1-.7zm-.2 .3zm-.3 .8zm-.6-.8zm-.3 .1zm-.6-1zm-.5 .6zm-.7-.7zm.3-.4zm1.1-1zm.3-.6zm.4-.9zm-.2-1.1zm-.1-.5zm.7-.7zm-.4-.3zm1.5-.1zm.5-.3zm0-.1zm-.4-.7zm-.2-.3zm-.2 .1zm-.3-.3zm0-.5zm-.7 .3zm.1-1zm0-.1zm-.3-.3zm0-.4zm.8 0zm.3 .2zm.2 .2zm.1-.1zm-.1-.4zm1.3 1.4zm.9-.5zm.3-.1zm.5 .7zm.1 .3zm-.7 .1zm-.8 .5zm.5 1.3zm-.2 .6zm0 .5zm-.7 .1zm-.1 .4zm-.2 .6zm-.3 .5zm0 .3zm.5 .2zm.1 .2zm.3-.4zm.5-.2zm.9-1zm.5 .5zm.5 .3zm-.2 .6zm-.7 .7zm.2 .2zm.8 .2zm.5 .3zm.1 .6zm.1 0zm.2 .1zm.3 0zm.1 .1zm.1-.3zm.1-.6zm-.3-.5zm.2-.8zm-.2-.8zm-.3-.5zm-.3-.4zm-.1-.6zm-.5 0zm.1-.3zm-.5-.3zm-.5-.2zm-.3 0zm.6-.6zm.5 0zm.2-.6zm-.1-.5zm.9-.2zm.3-.5zm.2 0zm.5-.2zm.1-.2zm0-.6zm-.4-.4zm.2-.8zm.7-1.2zm.9 1.6zm-.3 1.7zm-.5 0zm-.1 .5zm-.2 .1zm.1 1.2zm-1 .2zm-.8 .4zm1.6 .4zm1 0zm.2-.3zm.5-.2zm.4 .1zm.3-.3zm0-.2zm.4-.4zm.8-.4zm0-.2zm.2 .7zm.8 .5zm-.2 .5zm-.7 .1zm-.7 .2zm.4 .7zm-.1 .1zm-.3 .9zm.8 .2zm.4 .2zm-.2 .2zm0 .3zm-.2 .4zm.3 .1zm0 0zm-.2 .5zm-.3 0zm-.1 .6zm-.2 .2zm-.5-.6zm-.2-.6zm.2-.5zm-1.3 .8zm-.8-.2zm.1-.3zm-.9 .9zm.6 1.2zm.3-.1zm-.2 .7zm.2 .3zm-.1 .1zm-.3 .1zm-.3-.2zm-.2-.1zm-.1-.2zm.3-.1zm-.3 .6zm-.4-.7zm-.4 .4zm-.1 0zm-.1-.5zm-.4-.3zm-.1-.1zm-.5 .5zm.4 .7zm-.7 .1zm1.5 .5zm.1 .1zm0-.3zm.2 .8zm.4 .6zm.4-.2zm.6 .6zm1.1 .4zm.3 .9zm-2.2 .3zm-.6 0zm.2-.5zm-.3-.4zm0 0zm-.2-.6zm.3-.1zm-.8-.7zm-.8 .8zm-1.5-.6zm-.2 .5zm0 .1zm-.1 1zm.3 1.1zm-.1 1zm-.2 .3zm-.5-.2zm-.3 0zm.1 .7zm-.6-.1zm-.7 .1zm0-.5zm-.4 0zm.3 1zm-.1 .5zm.2 .2zm.9 .2zm.6 0zm.2 0zm-.1 .8zm0 .5zm.9 .1zm-.2 .5zm.6 .1zm.7 .7zm-.5 .5zm-.9 .4zm-.7-.7zm-1.2-.1zm-.3 .6zm.2 .2zm-.1 .1zm-.4-.5zm-.5-.5zm-.1-.7zm.6-.2zm.1-.5zm.5 0zm-1.1-.5zm-.6-.5zm-.5-.3zm.6-.3zm-.6 1.2zm-.2 .1zm-.4 1zm0 .2zm-.7 .3zm-.2 .3zm.1 .5zm.4-.1zm-.6 .6zm.1 .3zm.3 .2zm-.1 .3zm-.4 .5zm1.3-1zm.3-.4zm.3 .3zm-.1 .2zm.2 .8zm2.3 .2zm.2 .6zm-.1 .3zm-.1 .2zm1.1 0zm.1 .4zm-.3 .4zm.8-.2zm.1-.1zm.4 0zm.1 .2zm-1-1.4zm1-.4zm1.4-2.1zm.9-.2zm.5 0zm.1-.3zm.3-.1zm.4 .1zm.2-.2zm.2 .2zm.6 .2zm-.1-.9zm.5-.2zm.1 0zm0 .1zm.5 1zm.1 0zm.6 .5zm.2-.9zm.2-.1zm.3 0zm-.3-.5zm.4-.5zm.1 0zm.9-.4zm1 .3zm1.2-.3zm.1-.1zm0-1.4zm1.1 .5zm1.2-.7zm-.2-1zm.5-.3zm.3-.6zm-.4-.3zm.6-.5zm0 0zm-.1-1.8zm.7-1.6zm-1.8-.4zm-.4 .7zm-.3-1.4zm0-.4zm.5-.4zm.9 0zm2.3 .3zm0 .1zm1.9 1.1zm1.1 .2zm1.7 0zm.4 1zm.4-.2zm0 1zm-.7 .3zm-.3-.3zm-1.1 1.4zm-.6 .7zm0 .5zm-.6 .4zm-1 .3zm-1.4 .6zm-.6-.1zm-.1 .3zm-.4 .1zm.3 .4zm-.5-.9zm1.3 1.6zm.8-.4zm.7 .9zm.3 .5zm1.7 .1zm.7 .4zm-.3 .9zm.5 .2zm.3 .1zm.6-.3zm.8-.5zm-.1-.3zm-.8-.6zm.3-1zm.6 0zm.4-.8zm.5-.1zm.4 1.2zm.1 .9zm.4 .2zm.1-.1zm.3 .5zm-.3 .2zm.5 .5zm.3-.4zm1.2 .3zm1.3 .1zm.2-.6zm.8-.2zm.5-.9zm-.3-.3zm1.1-.2zm-.1 1.1zm.7 .4zm-.6 .5zm0 .5zm.4 0zm.1 .4zm.5 0zm.2 .1zm.1-.5zm-.4 0zm.8 .4zm.3 .6zm.1 .3zm-.1 .6zm.1 .4zm.4 0zm.4-.4zm.5 .4zm.6-.1zm.4 0zm-.1 .6zm.4 1zm-.4 .9zm-.5-.1zm-.8-.7zm-.9-.9zm-1-.9zm-.3 .1zm-.6-.2zm-.6-1.1zm-1.7-.5zm-.3 .7zm-1 1.5zm-.1 .1zm.2 .8zm.2 0zm-.1 .3zm-.6 .2zm-.7 .3zm-.5-.5zm.1-.3zm.6-.2zm-.4-1.2zm.4-1.2zm-.5-.3zm-1.4-.8zm-.2 .3zm-.1-.6zm1.4-1.6zm.8-.4zm.6-.1zm1 .1zm.9-.7zm-.1-1.4zm-.9-1.6zm-.9 0zm-.6 .7zm-.4-.4zm-.2-.1zm-.6-.4zm1.2-.7zm.1-.6zm-.6-.3zm1.1-.3zm1.6 .2zm-.6-2.3zm-.7-.4zm-.4-1.1zm-1.1 .3zm-.4 .5zm.5 .2zm-.4 .9zm-1.5 1.7zm-1.9 2.2zm-.3 .5zm0 .8zm-.7 .4zm.4 .6zm-.1 .3zm.6 .3zm0 .2zm.3-.4zm.5-1.3zm2.5 .3zm1 0zm.5 .3zm-.8 .5zm-.7 .3zm-4.1 1zm-1.5-1.5zm-.7-3.8zm.3-.2zm2.6-3.8zm.1-.1zm0-1zm.6 .1zm-.6-2.2zm-1.2-.2zm-.7-.1zm.1-.4zm-.1 .9zm-.9 .7zm-.6-.8zm.4-.6zm-.8-1.1zm.5-.3zm0-.8zm.5 .1zm-.3-1.3zm-1.5-.5zm-.2-.3zm-.5 .1zm-.7 .8zm-.8 1.5zm-.3 .5zm1 0zm.5 .1zm.6 .9zm.2 .6zm-.5 0zm-1.1 .3zm-.3-.2zm-.2-.4zm-.6 .2zm.1 1zm-1-.2zm-.4-.7zm.2-.4zm-.2-.5zm0-.2zm.4 .1zm-.8-1.1zm-.3-.2zm-.3-.6zm0-.5zm.1-.2zm.6-.4zm0-.3zm.2-.3zm-.3-.1zm-.7 .4zm-.5-.1zm-.7-.7zm-.1-1.3zm1-.4zm.4 .3zm.6-.1zm.4 1.1zm1.4-1.6zm.4-.4zm-.9-.4zm.1-.2zm-1.7 .3zm3.2-1.5zm1.4-.7zm-.1-1.5zm.4 0zm-.9-.7zm-1.5 0zm-.5-.3zm-.6-.4zm0 1.1zm.3 .6zm.7-.1zm-2-.8zm-1.3 .1zm-1.7-.7zm-1.2-.4zm-.7 7.8zm-.7 .6zm-.1 .1zm2.2 .3zm.5 .7zm.2 .6zm1 .4zm.5-.4zm2.8 .3zm-2.1 2.5zm.3 1.9zm-1.5 1.9zm-.6 2.3zm-1.3-.2zm-.4 .3zm.2 .7zm.1 0zm-1.2-.9zm-.7-.3zm-.6-.6zm-.2 .1zm-.4 0zm.3-.4zm.8-1zm.8 .7zm.1 .6zm2.1 3.3zm.7 .4zm.4-.8zm.6 .6zm.3-1.4zm1.4 .2zm-.6 2.6zm.4 .1zm.4 0zm-3.1 1.9zm-.8-.5zm-.8-.1zm.2-1zm-.3-.6zm.6-.7zm-1.6 2.2zm-.5 .5zm-.4-.1zm-1 .1zm-.4-.2zm0 .7zm-.6 .2zm-.2-.2zm-.6 .4zm.2 .2zm-.1 .1zm-.8-.1zm-.1-.7zm.1-.4zm.2-.6zm.1 0zm.2 .2zm.5-.4zm-.1-.3zm.6-.4zm.3-.2zm.1 .1zm-.2-.3zm-.3-.5zm.1-.2zm-1.3 .1zm.1 .6zm-.6-.2zm.1-.9zm-1.1 2zm-.6 .6zm-.6 .1zm0-.4zm1.4 2.4zm.2 .1zm.9 .7zm.3-.2zm.2-.2zm.1 .1zm.2 .2zm.2-.3zm.3-.2zm.6-.3zm.6-.4zm-1.6 1.6zm.7 1.7zm.9-.2zm.4 .8zm1.1 .9zm.6-.5zm-1.3 1.1zm-.9 .1zm-.5 0zm.3 .7zm.4 .2zm0 .1zm.7 .1zm0 .6zm0 .7zm.3 0zm.1 0zm-.1 .2zm.1 .3zm0 .3zm.4-.1zm0-.5zm.5 1.3zm.2 0zm-.1 .4zm-.7 0zm-.6 .7zm.4 .7zm-.4 .7zm-1.2 .3zm.3 1zm-1 .6zm-.2-.3zm-.3-.6zm-.9-.4zm-.6 1.2zm-.1 .3zm.4 .2zm0 .4zm-.8 0zm-.4 .5zm-.4-.1zm-.7-.2zm-.1-.7zm.1-.2zm.3 .1zm-.8-.4zm0-.6zm-.2 0zm.5-.3zm.6-.4zm.4-.4zm.2 .4zm-.1 .4zm.4 .5zm.7 2.2zm0 .3zm-.2 0zm.5 .1zm0 .3zm.1 .1zm.7 0zm-1.3 .8zm-.9-.5zm0-.4zm-1-.2zm-.2 .2zm-.2 0zm-.1 .2zm-.4 .5zm-.8 .1zm-.8 0zm-1.3-.3zm.7-1.6zm.6-1.1zm.9 .9zm.2 .1zm.2 .1zm.1 .7zm.5-.1zm.8 1.4zm-.3 2.5zm-1.4 .6zm-.1 1.6zm1.5 .5zm.8 .9zm-.1 .7zm1.4 .3zm.9-.8zm1.2-.9zm.9-1.2zm.4 0zm.7 .5zm0-1.5zm-1.5 .2zm-.7-1.3zm-1.8 1.6zm-.6 .7zm.4 .6zm-3.5 1.9zm-.7 .3zm-3 .3zm.4-3.9zm.9-1.3zm-3.5 .1zm-1.9-.7zm-.7-.2zm0-.8zm.3-.4zm.1-.2zm.3 0zm-.5-1.3zm-.6-1zm-.8-.2zm-.2 .1zm-.2 .3zm-.3-1.2zm-.7 0zm-.7-.1zm1-.8zm.1 .1zm.8-.8zm0-.5zm-.7 0zm-.2-.3zm-.5 .4zm1.7-1zm-.1-.6zm-1.5-1.3zm-.1-.2zm-.1-.4zm.7-.1zm-.2-.8zm-.2-.3zm1.9-1zm.4-.5zm1 1zm.8 0zm.9 .2zm.2-1.2zm-.1-.9zm.3-.1zm.1-.7zm-.1-.3zm-.5 .3zm-.6 .6zm-.5-.2zm.2-1zm1.9-.9zm.4 .6zm-.1 2.9zm.3 1zm.1 0zm-.8 1.5zm-.6 .4zm-.1-.7zm-.6 .4zm-.7 1.7zm1.1 1.7zm0 .2zm.3 .3zm-.8 .6zm-.4-.1zm.1 1zm1.1 .5zm.1 .1zm-.2 .6zm-.4 .3zm-.2 .1zm1.6-1.9zm.6 .2zm.5 .1zm.8 .5zm.4-1zm-1.3-1.9zm.3-.4zm.9-.7zm.2 .1zm0 .1zm-.3-.6zm1-.6zm.3 .1zm.2 .4zm.6-1zm0-.1zm-.7-.7zm.6-1.2zm.4-.3zm1.3 .6zm.5 .3zm-1 .4zm.6 1zm.2 .7zm.7-.2zm0-.3zm.3 1.4zm-.3 .2zm1.7-1.7zm.3 .3zm.4-.2zm1-.3zm-.2-1.1zm-.4-.5zm1.4 .6zm.4 2.9zm2.5 1.3zm.2 0zm-.3 .2zm.9-.8zm-.2-.6zm.1-.3zm.1-.1zm-.3-.1zm.2-.4zm-.1-.5zm.8-.4zm.2-1.2zm.3-.8zm.6 .2zm.2-.1zm.4-.1zm-.3-.5zm.6-1zm.8 .3zm1-1.3zm-1.7-.8zm.2-.8zm-1.5-.1zm-.5-.4zm-.3 .2zm-.2 3.3zm0 .3zm.2 .2zm.2-.1zm-1.6-.2zm2.9 3.4zm.5 0zm1.1-.7zm.5 .4zm-.1 1zm.3 .4zm-.4 .2zm-.4 .4zm-.4-.1zm-.3 .1zm-.6-.1zm0-.1zm-.3-.2zm-1.5 .1zm1 1.4zm-1 .5zm-.9 1.3zm.2 .6zm.9 .2zm1.4 .4zm.1 .6zm.1 .2zm-.9 .3zm-.6 .3zm-1.3-.7zm-1.1 .9zm0-2zm-1.4-.1zm-.5 .2zm2.3-1.5zm3.8 .9zm.4-1.5zm.4-.1zm.3-.7zm1 .8zm.6-1zm.1-.2zm1.9-.8zm-.2-.9zm0-.2zm.4 0zm.9-.9zm.2 .2zm.4-.3zm-.1-.4zm-.1-.1zm0-.3zm-.1-.2zm-.1-.1zm.2-.8zm.4-.5zm.6-.4zm.1-.9zm-1.1 .6zm-.2-.4zm-.5 .3zm-.5 .3zm-.2-.1zm-.3 .6zm0 .5zm-.6 .4zm-.1-.7zm-1.2 1.2zm-.3 .6zm.7 .2zm-.2 1zm-1.4-1.4zm0-.1zm4.1-3.2zm.2-.7zm-.3-.3zm0-.9zm.7 0zm2.2-.2zm.8 1zm.5-.4zm1.1-.1zm.6 .4zm1.5 .4zm-.7 1.5zm0 .6zm-.3 .1zm-.1-.1zm-.4 .3zm.9 .5zm.1-.1zm0 .2zm.8-.5zm.4 .2zm0 .7zm.4 0zm.4 .1zm-.3 .3zm1.2 .6zm1.3-1.1zm.3-.4zm.4-.5zm-.1-.9zm.4-.2zm.5 .3zm.4-.3zm1.5 .8zm-.6 .9zm.5 1.7zm-1.2 0zm-.4 .7zm-1.3-.7zm.3-.6zm-.6 2zm.2 1.1zm2.1-.3zm-3.8 2.3zm-.9-1.3zm.2-1.3zm-1-.7zm-.6 .1zm-1-.5zm.5-1zm-.2 2.7zm-.1 3.4zm-1.1 .8zm3.4-.7zm-6.2-4zm-1.5-1.2zm.3-1.3zm.6-.7zm-.2-.5zm1.2 0zm.2 .5zm.9-.4zm3.7-1.2zm8.6-2.9zm.1-.6zm.6 1zm.1 .2zm1.7-.2zm.1 .7zm.3-1.4zm-.4-.5zm.2-.8zm.4-.3zm.4-.1zm.4-.1zm-.1-.7zm-.9-.7zm-1.6 .3zm-.5 1zm-1.2-1.4zm2.2-1.7zm.2-1.1zm-.1-.4zm-.4 .1zm.3-.6zm.1-.2zm.4-.2zm-.1-.2zm.4-.3zm.1-.6zm-.4 0zm.8 0zm.4 .5zm1.1 .2zm.1 .1zm.1-.2zm.8-.1zm.8 .2zm.1 .4zm.5-.5zm0-1zm.1-.6zm-1.4 .1zm-.7 .6zm-.1 1.8zm-.4 .6zm.7 .2zm.3 .6zm.3 .2zm1.8 0zm1.2-.9zm.4 .1zm1.1-1.3zm.6-.6zm.6 .2zm-.4 1.5zm.6 1.9zm1 .4zm-2 .8zm.1 .3zm-.4-.1zm-1.6 .3zm-.3 .3zm-.6-.7zm-.9 .3zm-.4-.1zm-.3 .2zm.1-.9zm-1.7-.2zm-1.1-1zm-.1-.9zm.2-.7zm-.8-.3zm-.2 0zm.1 .4zm-2.9-3.5zm.6-.6zm.7-.6zm-.3-1.3zm-.5-1zm-.4-.5zm-.3 .5zm-.5-.5zm-1 .6zm-.4 .2zm-1.1-.6zm-.4-.2zm.1 .6zm.2 .9zm.3 .9zm.6 .1zm.1 1.4zm.2 .3zm1.1-.8zm-.3 2.3zm-1.5 2.3zm-1.7-6.5zm.2-.4zm-.8-1.1zm-.3 .1zm-.5-.5zm-.4 .2zm-.2 .3zm.6-1.1zm.6-.3zm.4-.3zm-.1-.4zm.8 0zm-.7-1.1zm-.6-.5zm-.8 .2zm-.5-.1zm.4 .9zm.4-.3zm.1 .4zm.2 .1zm-1.3 .1zm-.4 .1zm-.3-.3zm-.5 0zm-.8-.1zm1-.9zm.2-.8zm.2-.9zm.4-.3zm-1.6-.7zm-.4 .1zm.1 .7zm-.5 0zm-.5-.3zm-.9 .4zm-.5 .2zm-.1 .2zm-.1 .5zm-.6 .1zm1.2 .2zm1.1-.1zm.9-.4zm-1.3 1.8zm-.4-.2zm-1.2-2.9zm.1-.2zm-.4-.9zm2.2-.2zm.2-.2zm4.5 1.3zm.3 .9zm1.1-.4zm0 .8zm1.6-.2zm1.4 1.3zm0 1.8zm.3 .3zm.7-.5zm.7 .4zm1.2-.2zm1.6 .4zm-2-3.2zm-3.7 3zm-1.1-1.5zm-.1-.1zm-3.4 1.9zm-1-.2zm-.2 .8zm-.5 1.9zm-8.9-1.5zm-5.9-.6zm-.1-.4zm-.1 .9zm-3-1.8zm-.1-.1zm-.3 .1zm.3-.6zm-2.1 1.1zm-.5-.5zm-1.6 .3zm-1.3 2.8zm-.7 .2zm-.2-.7zm-.4 .2zm-1.1 0zm-.3 .2zm.4 .3zm2.1 .6zm-.3 .9zm-1.1 2.5zm.1 .1zm-4.3-.1zm-.3-.3zm-.4-.7zm-.5 .2zm-.5 0zm0-.4zm1.7 1.8zm.1 3zm-.2 .3zm-4.6 .8zm-.1 .1zm-1 .7zm.1 .2zm-.4 1.2zm-.8 2.9zm1 .4zm.1-.3zm.3 .3zm-3.8-.7zm-4.9-3.8zm-.9-.3zm-1.1 4zm-.8 .5zm-.7 2zm.2 .3zm-.9 .1zm-1.8-1.1zm-2-1.8zm-.2 0zm-.4-.3zm-.5 .3zm-.1 0zm-.1 .2zm-.3-.6zm0 1.4zm.5 .6zm-.4-3.4zm-.9-.2zm-.1-.6zm-.3-.1zm-.7 .6zm-.5 .1zm-.5 .3zm.8 .3zm-1.3 .4zm.1 .9zm-.4 .2zm0 0zm-.3-.1zm-2.7-.2zm-.6 .9zm-.7 .1zm-.3 .1zm-1-.1zm0 .2zm-.7 .1zm0 1.1zm.7 0zm-.2 1zm.9 .9zm1-.1zm.2-.6zm-.8-1.1zm.3-.3zm.3-.2zm.9 .1zm0 0zm-1.2-2zm.8-3zm.5-.6zm.1-.2zm-.2-.6zm-1.5-.5zm-1-.4zm.7-.7zm0-.5zm-.9 .2zm-.2-1.2zm-.3-1.4zm.8-1zm-2.5-.4zm-1.2 0zm-.3-.2zm1.3 1.9zm-1.1 1.2zm-.6 1.7zm-.3-.1zm.1 1.2zm.4 0zm1.4 1.7zm1.4-1.7zm-.1-.6zm-.2-.4zm-.3 .2zm1.4 1.1zm2.3-1.6zm1.7-.7zm.3-.1zm.7 .2zm.5-.7zm-.1-.2zm-2-.4zm.9-2.3zm3.2 .3zm-.2 .9zm.8 1zm.4 .7zm-.9 0zm0 1.7zm-.8 .4zm-.2 .3zm.3 .7zm.2 1zm.4 .3zm1.4-.9zm.7-.3zm.2-.5zm-.3-.5zm-.8-.2zm0-.1zm-.2 .9zm-3-.3zm-.5-.2zm-.2 .6zm.4 .6zm5.6 2zm.9-4.1zm.6-1.1zm.6-.5zm.2 .2zm.2 .3zm-.1-.7zm-.2-.2zm.8 .2zm.1-.4zm.2-1.3zm-1.9 .3zm-.6-.6zm-.4-.1zm-.8 0zm1.7-.5zm.8-1zm-.5-.5zm-.7-1.2zm-1.5 5.1zm.8 .5zm4.4-.5zm4-1.2zm-.3-6.4zm-1.4-1.3zm-1-.7zm-.7-.5zm-.7 .1zm-.3-.3zm-.6 .2zm.2-2.2zm2.2-.3zm.7-.4zm1-.5zm.5 1.4zm-.3 .1zm.8 .1zm-.8 1.1zm-1.4 .1zm-.7 .2zm9.6-.9zm-.1-1.1zm.7 3.4zm.5 .1zm1.5 .5zm.1 0zm0-.4zm1 .4zm.4-.6zm.3 1.4zm-.7 .2zm1.6 .3zm0 .4zm.4-.8zm.4-1zm1 1.2zm-.4 .6zm-.7 1.4zm1.7-2.8zm-.4-1.5zm.5-.5zm-1.1-.1zm-1.4-1.9zm-.4-.4zm3.4-.4zm.2-1zm.7-1.3zm-.6-.6zm-1-.1zm.9-2.9zm5.4 2.6zm.2 .6zm0 .5zm-.1 .1zm.4 0zm.8 1.3zm-4.8 5zm-9.5 2.2zm-.8 .2zm-.4 .1zm.7 .6zm8.1 17.3zm-.9 1.8zm-1.1 .4zm-.4 1.4zm-4.5 3.3zm-2.1 1.1zm-.2 .4zm-.1 .4zm-.5 .2zm.1-1.1zm1.6 1.3zm1.5 .5zm-.9 1.4zm-.4 .3zm.7 .7zm.1 .3zm.4 .2zm.9 .9zm.9 2.3zm-2 1.2zm.2 .6zm-2.9-1.1zm-1.5-1.2zm-.9-.7zm-1.7-.5zm3.2-1.8zm.3-1.4zm.3-.6zm.9 .3zm-.1 2.4zm-2.9-6.1zm-.9-.2zm-1 .6zm-1-.7zm-.5-.2zm.2-.3zm.8-.7zm.7-.7zm0-.5zm.4 0zm-.4-.7zm.5-.6zm0-.2zm.4-.3zm.9 .1zm.7 1.4zm.3 1.2zm-.5 .8zm-1.5-.7zm-2.3-1.3zm-.8 .3zm.4 .8zm1.5-2.9zm-9.7 1.7zm-.1-.1zm-.6 .3zm-1.1 2.6zm.9 .8zm-1.1 .7zm-.9-.1zm-.3 .7zm-2.3 2.5zm-.4-.1zm-.3 .5zm-.2 .2zm.1 .4zm-.4 0zm.3 .6zm.5 .4zm.6 .4zm.3-1.2zm.8-.2zm.4 1.5zm1.4-.8zm0-.5zm.3 1.3zm-.1 2zm0 .2zm.2-.1zm1.3-.5zm.6 2zm-.9 1.6zm-.6 .4zm-.8 1.7zm2.2 2.9zm1.7-2.8zm1.4-1.5zm1-.6zm-.3-1.1zm-.8-1.1zm.5-1.8zm-.6-.6zm-1.4-2zm-.4-.8zm.9-.1zm-.1 7.5zm2.2 1.3zm.2-.1zm2.1-.1zm.1 .6zm-.3-2.8zm.2-.1zm1.2-.9zm3.8 3.2zm15.9 .2zm.6 .1zm.9 1.4zm1.4-1.3zm7.5-5.7zm.9-1.5zm-.2-1.1zm.3-.5zm-.9-.2zm2.5 .1zm1.3-.8zm-1.3-1.3zm2.3-2.6zm1.3-1.2zm-1.9-10.6zm-.5-.2zm.6-.5zm-6.3-2zm11.3-21.6zm18.4 23.4zm-.2 .4zm-.3 .7zm.7 .9zm1.1-.7zm1.1 .7zm.4 .6zm-.1-1.6zm2-.7zm.2-.2zm.7 .8zm.2 .8zm.7-.4zm.4 1.3zm.2 .3zm-2.3-1.3zm5.2-3zm1.5-.9zm-12.8 6.9zm-68.2 5zm-1.1-.1zm0 .5zm-.1 .4zm-.1 .3zm-.6-.5zm-.5 .1zm.2-1.2zm-.5 0zm-.9 0zm-.1 2.4zm.4 .5zm.3-.4zm-.1 1.7zm-.6 .3zm.6 .6zm-1.1 .1zm-.7 1.3zm.9 1zm-2.4-.7zm-2.1-.4zm4.8 3.7zm-.2 .6zm1.7 .2zm1.9 1.6zm.2 .1zm-6.8-12.5zm-.3-.8zm-1.1-.2zm-.1-.5zm0 1.4zm-1.6-2.4zm1-.6zm-1.8-1.1zm-.2-.6zm-.9-.3zm0-.2zm1-1.2zm.4-.9zm.8 1zm.5 .6zm-3.5 2.4z"/>
</defs>
<g class="pt" stroke-width="1.08" opacity="0.92">
<use href="#q2l" stroke="#2ca02c"/><use href="#qnl" stroke="#2ca02c"/><use href="#q1l" stroke="#2ca02c"/><use href="#q0l" stroke="#2ca02c"/><use href="#q2m" stroke="#1f77b4"/><use href="#qnm" stroke="#1f77b4"/><use href="#q1m" stroke="#1f77b4"/><use href="#q0m" stroke="#1f77b4"/><use href="#q2u" stroke="#ff7f0e"/><use href="#qnu" stroke="#ff7f0e"/><use href="#q1u" stroke="#ff7f0e"/><use href="#q0u" stroke="#ff7f0e"/>
</g>
<g class="pt" stroke-width="1.08" opacity="0.95" transform="translate(294 0) scale(1.0476 1)">
<use href="#q2l" stroke="#5b4db0"/><use href="#q2m" stroke="#5b4db0"/><use href="#q2u" stroke="#5b4db0"/><use href="#qnl" stroke="#8f8f8f"/><use href="#qnm" stroke="#8f8f8f"/><use href="#qnu" stroke="#8f8f8f"/><use href="#q1l" stroke="#91d25d"/><use href="#q1m" stroke="#91d25d"/><use href="#q1u" stroke="#91d25d"/><use href="#q0l" stroke="#fdb863"/><use href="#q0m" stroke="#fdb863"/><use href="#q0u" stroke="#fdb863"/>
</g>
<path class="pt" stroke="#ff7f0e" stroke-width="0.5" opacity="0.48" d="M222.3 174.8zm.9 0zm.1 0zm0 .5zm.3 .4zm.1 .1zm.2-.3zm.3 .1zm.2 .3zm0 0zm.1-.1zm.1 .1zm.1 .2zm.2-.2zm.3 .1zm-.3 .4zm-.2 0zm-.4 .1zm-.2 0zm.1 .2zm.2 .2zm-.3-.7zm.5-.6zm.4-.2zm.1-.3zm.2 .1zm0 .1zm.2-.1zm.1 .1zm.3-.1zm.1 .1zm.3 0zm.2-.3zm0-.1zm-.1-.2zm-.1-.1zm-.1 .3zm-.5-.1zm-.3 0zm0 .2zm-.5-.1zm-.2-.4zm.5-.2zm.3-.1zm.4-.4zm.7 .3zm.1-.5zm.4-.1zm0 .3zm.2 .3zm.3-.4zm-.3-.5zm-.3-.4zm.5-.4zm0-.1zm.2-.2zm0 0zm-.1-.5zm.6 .1zm.6 .2zm.1 .1zm.1-.3zm.4 .4zm0 .1zm0 .3zm-.2 .3zm-.1 0zm-.2 .1zm-.1-.2zm-.1-.1zm-.1 .2zm-.2-.1zm0 0zm-.1 .1zm0 .1zm-.1-.1zm-.2-.1zm-.3 0zm.3 .4zm.6 .4zm.1 .5zm0 .1zm-.2 0zm-.3 .2zm0 .2zm-.1 .2zm-.3 .2zm-.1 0zm-.1 0zm.3 .3zm.3-.1zm.1 .2zm-.1 .3zm.3 0zm.3-.2zm.2-.2zm.1-.3zm0-.1zm.1 0zm.2 0zm.4 .3zm.4 0zm.1-.2zm-.2-.1zm0-.1zm0-.2zm-.1 0zm-.1 .1zm.5 0zm.2-.3zm0-.3zm.1 0zm.2 0zm.3-.4zm-.1-.4zm-.3-.2zm.5-.1zm.6-.1zm.3 .1zm.1-.1zm.2 .2zm.2 .2zm.2 .1zm.1 .1zm.1 0zm0-.1zm.1 0zm-.1 .2zm.1 .2zm.4 0zm.4 .1zm.3 .1zm0 0zm0-.2zm0 0zm0-.2zm.2 .1zm.2 .1zm.1-.4zm0-.1zm-.1-.1zm-.2 0zm0 0zm0-.1zm-.1 0zm.1 .2zm-.4-.3zm.2-.2zm0-.2zm-.3 .1zm-.2 0zm-.4 0zm0 .1zm0-.4zm-.1-.3zm.2-.1zm0-.2zm0-.1zm-.3-.1zm-.1-.2zm-.2-.1zm0-.1zm-.1 0zm0-.2zm.2-.1zm-.1-.1zm-.2 0zm-.2 0zm.2-.3zm-.4-.2zm-.6 .9zm-.2 .8zm-.4 .1zm-.5-.1zm-.2-.2zm-.1 .2zm.1 .6zm.1 0zm.2 0zm-.9 .4zm-.2 .2zm.2 .4zm.2 0zm0 .2zm0 .1zm-.8-.2zm-1-1.2zm.5-1.2zm-.1-.4zm-.2 .1zm-1.4 3.6zm-.5 1.4zm.1 .1zm-.1 .2zm.1 .1zm-.3 0zm0 .1zm.1 .2zm-.5-.3zm-.1 0zm-.1-.1zm-.2 .2zm.5-.4zm.1-.1zm.1 0zm-.1 .2zm1.1 .2zm.2-.1zm.1-.1zm.2 .2zm.6 .2zm0 .1zm.2 .1zm-.1 .1zm.3 .3zm.1 .1zm-.2 .2zm.2 .1zm.3-.1zm.2 .1zm.1-.1zm.3 0zm.2-.2zm.2 .4zm0 .3zm.1 .1zm0 .4zm.1 0zm.3-.1zm.2 .2zm0 .2zm.2 0zm.1 .3zm-.2 .2zm.3 .1zm0 .3zm-.4 .2zm-.2-.2zm.1-.1zm-.6-.2zm.2-.4zm0-.1zm0 0zm-.1-.1zm-.5 .1zm-.3-.7zm-.1-.3zm-.4 0zm-.2 .1zm.3 .2zm-.1 .2zm-.1 .1zm0 .5zm-.5-.2zm-.3-.4zm-.1 .1zm-.3 0zm-.3-.1zm-.4-.1zm-.2-.2zm-.2 0zm-.2 0zm.2 .4zm0 .1zm.2 0zm0 0zm.3 .2zm-.1 .2zm-.1 0zm-.4 .4zm-.4 .1zm-.3-.1zm-.3 .2zm-.2 .3zm0 .1zm.1 .3zm.2-.1zm.3 .5zm.4-.7zm0-.1zm.8-.2zm.2 0zm-.1 .2zm.5 .6zm-.4 1zm.3 .1zm-.9-.1zm-.4 .5zm.5 .7zm2.8-.9zm.7-.9zm-.6-.5zm.4-.5zm1.7 0zm.6 .3zm.9-.1zm.3-.2zm-.4-.6zm-.2 0zm.5-.2zm.3-.3zm.1 .1zm.2 0zm0 .1zm0 0zm.1 0zm0 .1zm0 0zm0-.3zm-.1-.2zm.1-.3zm.3 0zm.3-.1zm0 .2zm-.2 .2zm.2 .2zm.5-.3zm.1-.4zm-.3 0zm-.1-.3zm.2-.2zm.1-.1zm-.2-.3zm-.1 0zm.1-.1zm-.1-.1zm-.2-.2zm0-.2zm.4-.2zm.1-.1zm.1-.4zm0-.2zm.1 0zm-.4-.2zm-.2 .1zm-.1 .1zm-.1 0zm-.2 .1zm-.1-.3zm0 0zm0-.3zm.1 0zm0-.1zm.2 0zm-.2-.3zm.1-.2zm.1 0zm0-.1zm-.1-.1zm-.3 .1zm-.4 .2zm-.1 .2zm-.2 0zm0-.1zm-.1-.2zm-.1 0zm-.2 .1zm-.1 .1zm-.4 0zm0-.1zm0 .2zm0 .2zm-.2 .1zm.1 .1zm-.3-.1zm-.2 0zm.2-.2zm0-.1zm-.3 0zm0 .6zm.3 .3zm-.2 .2zm.3 .2zm.3-.2zm.3-.2zm.2 .2zm.5 0zm.2-.1zm0-.3zm.1-.2zm-.2 0zm-.3 0zm-.4 0zm-.3-1zm.1-.2zm-.6-.4zm-.1-.2zm-.2 0zm-.1 0zm.3-1.1zm.5 0zm.4 .3zm0 0zm-.4-.9zm1.2 .3zm.3-.3zm-.1-.1zm-.1-.1zm-.1-.1zm.2-.3zm-.2-.1zm-.2-.2zm.2-.6zm.6 .4zm.1 .2zm.1 .1zm-.3 0zm.3 .4zm.1 .3zm.2-.1zm.1 0zm.1-.1zm.1 .2zm.1 .2zm.1 .2zm.1 .1zm.2 .1zm-.4 .4zm-.2-.2zm-.2 0zm-.2 0zm0-.1zm.2-.5zm0-.1zm.7-.3zm.6-.3zm0-.1zm.2 0zm0 0zm0-.1zm.1-.2zm.3-.4zm.3-.5zm.3-.6zm-.6-.2zm-.2-.1zm-.2 .2zm.2 .1zm-1.2-.4zm.5 1.7zm.8 .8zm.2 .2zm0 .1zm.1 .4zm.3 0zm.1-.1zm.4-.5zm.1 0zm-.4-.4zm-.2-.1zm1.1 .1zm.1 .2zm0 .1zm.4-.3zm.2-.1zm0 .2zm0 .2zm.2 .5zm.1 .2zm.1-.1zm.1-.1zm.2 0zm.1 0zm0 0zm-.1-.2zm.3 .4zm.2-.1zm.2-.3zm0 .8zm-.1 0zm-.1 .3zm-.3-.3zm-.1-.1zm-.1 0zm.1-.1zm-.2-.1zm0 .6zm-.2 .1zm-.1 .1zm-.1-.2zm-.7-.2zm-.1 .3zm.1 .4zm.1 .2zm.1 0zm.5 .7zm.3-.2zm.2 .2zm.2 0zm.2 .4zm0 .3zm.3 .3zm.3 .2zm.1 .3zm0 .1zm-.1 0zm-.1-.1zm.4 .1zm0 .1zm.1 .3zm.2-.1zm.1 0zm0-.1zm0 .2zm.1 0zm.4-.4zm.1-.4zm.1 0zm.2 .1zm.1 .4zm.3-.2zm.2 .2zm.1 .2zm.5-.3zm.2-.1zm.2 0zm.1 .4zm.1 0zm-.6-.6zm-.2-.4zm.4 0zm.1 0zm.3-.3zm.2 0zm.5 .3zm.3-.2zm-1.1-1zm-.2 0zm-.1 .1zm-.3 .3zm-.1 0zm-.4-.4zm-.3 0zm-.2 .1zm-.1 0zm-.2-.1zm-.2-.1zm-.1 .2zm.1 .2zm.2 .1zm0 .1zm.4-.1zm.3 .6zm0 .2zm-.9 0zm.1 1.4zm-.4 .3zm-1 .1zm-.5-.2zm-.4-.1zm0-.3zm-.3-.1zm.1-.3zm-.2-.3zm.1-.1zm-.2-.2zm.1-.1zm-.3-.4zm-.1 0zm-.5-.3zm-.4-.1zm0-.1zm-.1 .2zm-.3 0zm-.3 .2zm.2 .2zm.2 .2zm.2-.3zm.3 .8zm.2 0zm0 .1zm.2-.1zm.1-.2zm-.2 .6zm-.2 0zm-.1 .1zm.1 .8zm-.2 .1zm-.3 0zm-.1-.1zm-.2-.1zm.1-.1zm-.3-.2zm-.1 .1zm.2-.2zm-.1-.2zm.1-.3zm-.8-.3zm-.6 .4zm-.3-.2zm.3 .7zm-.2 .4zm-.2-.1zm.3 .6zm-.1 .3zm.3 .1zm0 .1zm.1 0zm-.1 .3zm-.1 .4zm-.1 .4zm-.2 .1zm-.2 .1zm0-.5zm-.1-1.1zm.9 0zm.3 .4zm0 0zm.5-.2zm0-.3zm0 0zm.4-.2zm.1 .1zm-.1-.3zm-.1-.1zm-.7 .2zm.5 1zm-.6 1.2zm-.7 .4zm0 .2zm-1.4 .1zm-.1 .4zm-.8 .2zm-.1 .2zm-.5 0zm.2 .8zm.1 0zm.3 .4zm.3-.3zm-1.8-.8zm-.7-2.1zm0-.6zm.1-.3zm.3 .4zm.5 .2zm.1-.2zm.4 .1zm.6 0zm0 0zm.2-.3zm-.1-.1zm0-.7zm-.2-.4zm0-.3zm.1-.2zm.2 .2zm.1-.4zm-.6 .2zm-.2 .2zm-.2 .4zm-.3 .5zm0 .1zm-.7-.5zm-.1-.4zm0-.3zm0-.2zm-.3-.1zm0-.2zm-.6 .1zm-.5 .3zm-.1 .1zm0 .2zm.3 .2zm.3 .7zm-.2 .4zm.8-1.3zm.6 .1zm-1.8-1zm-.1 0zm.1-.2zm.2-.1zm.1-.3zm.6-.4zm-.2-.3zm-1.1 1.2zm-.4 .2zm.1 .4zm0 .1zm-.7 .1zm-.1-.2zm-.3 0zm-.1-.3zm.5 0zm-1.4 1zm-.4 .5zm0 .1zm-.2 .1zm.3 .2zm.6-.1zm-1.6-.4zm-.6 .3zm0 .2zm-.2 0zm.4 .3zm-.1 .3zm-.1 .5zm.5-.1zm.1-.1zm-1.1-.5zm-.1-.7zm-1.3-.7zm-.4-.3zm-.3-.2zm.4-.5zm.9-1zm-.2-.2zm-.2-.1zm-.4-.4zm.3-.7zm.6 .1zm.5 5.8zm6.4 6.4zm3.1 4.5zm.3 1.9zm1.7 2.2zm-1.7 1.4zm-1.8-.1zm-2.5 2.3zm-.4 .2zm.2 1.4zm-3.3-.4zm-2.7-1.6zm-1.1-.7zm2.7-2zm1.5 1zm1.4-.7zm.2 .3zm10.5-5.3zm2.6 .8zm-.7 1.5zm2.9 2.5zm1.1-1zm2.2-1.2zm-.3-.7zm-.7 5.4zm2.8 .1zm-.9 3.1zm-3.3-.4zm-2.2-4.3zm2.9-9.2zm-.2-1.5zm3.8 .6zm2.4-3zm-.5-.6zm-2.1-1.6zm4 3.5zm8.9 11.6zm.7-.5zm.6 .4zm-25 12.8zm-.2 .1zm-.1 .1zm-.1-.2zm.1-.1zm1.2-30.8zm.1 0zm-.3-.4zm.3-.2zm0-.2zm0-.2zm-.4 .1zm.6 .3zm.6 .3zm.6-1.1zm-.1-1.8zm.2-.9zm.3-.2zm.5-.1zm-.5-.7zm-.2 .1zm-.1 .1zm.7-.6zm.2-.7zm-2.1-.2zm-.7-.4zm0-.1zm-.5 .1zm-.1 1.3zm.3 0zm-.7 1.2zm0 .5zm0 .1zm-.9 .3zm-.1 .1zm0 .2zm-.4 0zm-.2 .4zm-.5 0zm-.3-.4zm-.1-.1zm-.2 .4zm.1 .2zm-.4 .7zm-.2 .2zm-.6-.9zm.9-1zm.5-.3zm-.1-.2zm-.4-.1zm.9 .8zm.3-.4zm.3 0zm0-1.5zm0-.2zm3.3 1.6zm-.2 .7zm3.1-.8zm.3-.1zm-8.8 3.4zm-.1 .4z"/>
<path class="pt" stroke="#2ca02c" stroke-width="0.5" opacity="0.5" d="M222.5 259.9zm.1-.1zm.1 0zm.1 .3zm.5 .4zm.3-.3zm.2-.2zm-.3-.4zm.3 .9zm0 0zm.1 .4zm.5 0zm0-.2zm.1-.2zm0-.3zm-.3 .2zm.3-.7zm.2-.2zm.3-.1zm.2 .2zm.4 .4zm.3-.3zm-.1-.2zm.4 .7zm.2 .2zm0 .1zm.1 .2zm.1-.3zm.2 .1zm0 0zm.2-.1zm-.3-.3zm-.6 .4zm.5 .5zm.1 .6zm-.2 .2zm-.7 0zm-.7-.7zm0-.4zm-.8 1.4zm.2 .1zm-.5-.1zm-.1 .2zm.1 .1zm-.2 .1zm-.4-.6zm.2-.1zm.9-2.7zm.6-.2zm-.7-.9zm-.3-.5zm0-.1zm.3-.2zm.6 .1zm.3-.1zm.4 .2zm.4-.2zm.3 0zm0 .3zm0 .1zm0 0zm0 .1zm-.4 .3zm.6 .5zm.3-.1zm.1 .4zm.1 .1zm.1 0zm.4-.3zm.1 .2zm.1 0zm0 .1zm0 .2zm.3-.1zm.2-.2zm.2-.3zm0-.1zm0-.1zm-.4-.1zm-.4-.2zm-.3 .2zm.5 .4zm.9 0zm.1-.1zm.1 .1zm0 0zm.4-.1zm.1-.1zm-.1-.1zm0-.1zm-.5-.2zm.1-.2zm-.3-.1zm0-.2zm.4-.6zm.5-.1zm.2-.3zm.1-.1zm.1 0zm.3 .4zm.1 .1zm.4-.2zm.3 .4zm0 .4zm.2 .1zm.2-.2zm.3 .3zm-.4 .2zm.2 .6zm0 .4zm.5 0zm0 .3zm-.1 .1zm-.1 0zm.4 .2zm.4-.2zm.1-.7zm-.3-.2zm.9-.2zm.1-.3zm-.3-.3zm-.2 0zm.1-.2zm-.1-.3zm-.1 0zm0-.4zm.4-.2zm.1 0zm.4 .2zm0 0zm.7 .2zm.2-.2zm.3 .1zm0 .3zm.3 .3zm.3-.2zm.4 .1zm-.3 .4zm-.5 .1zm-.2 0zm-.1-.1zm-.1-.2zm-.4-.1zm.4 .6zm-.2 .1zm-.3 .2zm-.4-.1zm.7 .4zm-.4 .4zm-.6 0zm-.3-.1zm.1 .5zm-.2 .5zm.1 .1zm0 .2zm.5 0zm.2 .3zm.5-.1zm.4-.2zm.1 .2zm.2-.5zm-.1-.3zm.2 0zm0 0zm-.3-.2zm-.1-.3zm.6-.3zm.3 .3zm-.2 .2zm.1 .1zm.4-.1zm.6 .1zm.3 .1zm0 .2zm.4 .3zm-.1 .1zm.2 .1zm.4 .1zm.1 .2zm-.3 .1zm.2 .4zm0 .2zm.4-.3zm.3-.6zm-.3-.1zm.4-.3zm.3-.1zm-.3-.3zm0-.2zm0-.1zm.1-.1zm-.1-.2zm.3 0zm.4 0zm0-.1zm.1-.3zm-.3 0zm-.1 0zm-.2 0zm-.3-.6zm-.4-.2zm-.3 0zm-.1-.1zm.2-.2zm.1 0zm.2-.6zm.1-.3zm.2 0zm.6 .4zm.1 .1zm-.3 .3zm0 .1zm.6 .5zm-.1 .2zm.7-.2zm.5 .8zm0 .2zm.5-.3zm.2-.3zm.3 .6zm.5-.2zm.2 .3zm.3 .5zm0 .2zm0 .4zm0 0zm.1 .5zm.6-.1zm.2-.1zm.2 .1zm-.1 .1zm-.1 .2zm.2 .2zm-.1 .2zm.3-.1zm.1-.1zm.2 0zm.3-.2zm-.1-.1zm0-.3zm.4-.3zm.2-.1zm0 .4zm.6-.4zm.2 .1zm.2-.3zm.3-.2zm.1 0zm-.2-.2zm.1-.1zm.3-.6zm-.2-.8zm.1-.4zm-.4 0zm0-.7zm-.1-.2zm-.2 0zm.2-.3zm.3-.2zm.3 .2zm0 .1zm-.1 .1zm.3-.9zm.4 0zm.2-.2zm.2-.2zm.1-.4zm.4 .3zm.4-.6zm-.4-.3zm1 .3zm-.3 .9zm-.2 .6zm0 .3zm.6-.1zm.2-.1zm.3-.4zm.1-.2zm.5-.1zm.4-.1zm0 .5zm-.1 0zm-.1 .3zm-.1 0zm-.1 .3zm.5 .9zm.3-.2zm.5 .3zm-.2 .5zm-.1 .4zm-.2-.1zm-.3-.4zm-.5 0zm-.5 .2zm-.1 0zm.1-.5zm.4 .9zm.2 .2zm.2 .4zm-.2 .3zm-.6-.1zm-.3-.5zm-.4 .5zm-.3-.4zm.1-.5zm-1 .6zm-.4 1.1zm-.1 0zm-.1 0zm-.1 .1zm-.1-.3zm-.3 .2zm-.2 .7zm-.4-.2zm-.5 .1zm.3 .5zm-.3 .2zm-.3-.1zm-.2 .2zm-.1 0zm-.2-.1zm0-.1zm-.9-.5zm-.1 1zm.2 .2zm.1 .2zm-.2 .2zm.5 0zm.1 .1zm.2 0zm.3 .2zm.3-.2zm.4 0zm.2-.3zm.1-.3zm.3 0zm.1 .2zm0 .1zm-.1 0zm.4 .1zm0-.4zm-.2-.2zm0-.2zm0-.2zm-.4 .3zm1-.7zm.3 .2zm.1-.1zm.3 .3zm.4-.3zm.7-.2zm0-.1zm0-.5zm-.1-.2zm-1.3 .3zm-.1 1.8zm-.3 .5zm.3 .6zm1.2 0zm.2 .3zm.2-.1zm0-.4zm.2-.5zm0-.4zm-.4 0zm1.2-.3zm.2 .6zm.1 .4zm.5-.3zm.1-.4zm.3-.1zm.5-.2zm.1-.3zm.3 .6zm-.4 .5zm.7 .2zm.7-.2zm.4-1.3zm-.2-.1zm-.1-.7zm-.7 .3zm.6-1.1zm.8-.7zm.5-.1zm0-.9zm-.4-.2zm.2-1zm.1-.7zm-1.3-.2zm-.5-1.3zm2.2-.4zm.5 .2zm1.8-.7zm.5-.9zm-2.5-2.3zm-.2-.1zm-.9 .7zm-.3-.3zm0 .6zm-.9 .3zm.7-2.2zm-.8-.6zm0 0zm0-.3zm-.1-.1zm.3-.4zm-.5-.4zm0-.3zm-.1 0zm.4 0zm-.9 .7zm-.3-.6zm-.3-.4zm.2-.1zm-.4-.3zm-.2-.1zm.3-.3zm.1 0zm-.2-.1zm.1-.2zm.2 0zm.4-.3zm.2-.2zm.2 0zm-.6-.1zm-.8-.1zm.1-.7zm-.6 .2zm-.8 .1zm-.7-.2zm-.6-.1zm-.1-.3zm-.4-.2zm.7-.8zm.2 .1zm.1 0zm.4-.6zm-1.7-.8zm.2-.9zm-1 3.4zm-.7 .3zm1.1 1zm-.3 .3zm.6 .2zm.1-.1zm.1 .4zm.3-.6zm.2-.2zm.8 0zm.1 .5zm-.1 .5zm-.2 0zm.4 .4zm.3-.3zm.1-.2zm.2 0zm.2 0zm.2 .1zm.2-.1zm0 .2zm-.2 .3zm.1 .3zm-.3 0zm-.8 .6zm-.7-.1zm-.2-.3zm0-.1zm-.6 0zm-.1-.1zm-.2 .2zm-.4 .1zm.2 .4zm.6 0zm.1 .3zm0 .1zm-.1 .3zm.1 .2zm0 .2zm.5-.5zm.6 .6zm.2-.1zm-1.9-.5zm-.8 0zm-.4 .2zm-.2-.5zm.2-.1zm-.2-.6zm.2-.4zm.7-.3zm-1.6 1.8zm-.6-.4zm-.1 .2zm-.2 .1zm-.5 .7zm-.5 .4zm.6 .8zm-.3 .2zm-.4 .1zm.1 .4zm.2 0zm0 .3zm-.5-.2zm-.2-.3zm-.2-.3zm-.2 .2zm-1.2 .1zm-.2 .1zm.3 .3zm-.5 .9zm-.2 .8zm.1 .2zm-.5 .2zm-.1-.5zm-.4 .3zm-.5-.3zm-.4 0zm-.2 0zm-.5 .6zm-.2 .8zm.5 0zm-.1 .3zm.4-.1zm.2-.2zm.4-.3zm.3 .2zm-.3 .5zm.8 .1zm.1 .6zm-.8 .4zm-1.1-.1zm-.6 .3zm.1 .4zm.1 .2zm-.1 .1zm0 0zm-.2-.1zm-.1-.2zm-.4 .2zm-.1 .1zm-.3 .6zm-.7 .7zm-.1 .2zm.5 .2zm.1 0zm.4 .3zm.3-.2zm.3 0zm0-.1zm.1-.2zm.3-.2zm.1-.1zm-.2-.2zm.6 .4zm-.2 .4zm-.1 .1zm-.2-.1zm-.1 .3zm-.1 .3zm.6-.2zm.2 .4zm.9-.1zm.5 .2zm.1 0zm.1 .1zm0 .1zm.3-.2zm-.3-.3zm.1-.3zm.9 .5zm.3 .4zm0 .2zm-.2 .3zm-.1-.1zm.3 .4zm.1 .8zm.5-.2zm.9 .1zm.5-.1zm-.1 1.4zm0 .1zm.2 0zm.3 0zm.4 .2zm.4 0zm0-.1zm.2 .5zm-.1 .1zm0 .2zm.2 .4zm-.4 .7zm-.3-.1zm-.4 .1zm-.7-.1zm.1-.4zm-.4-.1zm-.1-.7zm-.1 0zm0-.2zm-.1 0zm-.1-.5zm-.4-.2zm0-.3zm-.6 0zm0-.1zm0 .4zm0 .3zm-.4-.1zm-.4 0zm0 0zm-.1 .2zm.1 .1zm-.3-.3zm0 0zm-.2 0zm.4-.3zm.1-.3zm-.3-.3zm-.3-.1zm-.1 .5zm-.3 .4zm-.1-.1zm-.4 .1zm-.3-.2zm0-.2zm.1-.1zm.3 .1zm-.7-.5zm-.3-.1zm-.5-.1zm-.1-.3zm-.3-.2zm0 0zm-.4-.3zm-.3 .1zm-.1-.1zm-.1 0zm-.1 .4zm.3 .2zm-.2 .3zm-.1 0zm-.2 .2zm.2 .3zm0 0zm-.3 .1zm-.2-.1zm-.2-.2zm-.1 .3zm.2 .2zm.1 .2zm.2 .1zm.1 .3zm-.8 .2zm-.2 .3zm-.3-.1zm0-.2zm-.1 0zm-.2-.3zm0-.1zm.1 0zm.3 .1zm.4-.2zm0-.7zm.1-.5zm-.4-.2zm-.3 0zm0-.1zm-.1-.4zm-.5 .6zm0 .2zm-.3 .1zm-.2 .2zm.1 .2zm.3 .3zm.4 0zm.3-.4zm-.8 .8zm.4 .3zm-.4 .3zm.3 .8zm.5 .3zm-1 0zm-.1 .5zm-.8-1.1zm-.1-.3zm.3-.1zm-.2-.6zm-.5-.2zm0-.2zm.1-.1zm-.3-.1zm.2-.2zm.5 .1zm0 .1zm.2-.2zm-.3-.6zm-.8 0zm-.4 .6zm0 .3zm.1 .1zm0 .1zm0 .1zm.1 .1zm-.5 .5zm-.7-.7zm-.4 0zm-.2 .1zm.2-.4zm0-.6zm.3-.5zm.1-.1zm-.1-.3zm-.3-.4zm0 0zm0-.2zm.3 .1zm.1-.3zm.4 .6zm.4-.2zm.1 .5zm-.1 .1zm-.6 .5zm.5 .7zm-1.7 0zm-.1-.4zm-.1-.1zm-.1 0zm-.1 .2zm.4-.5zm-.3-.2zm-.1 0zm-.4-.1zm.1-.5zm0-.2zm-.1-.2zm0 0zm-.1-.2zm0-.1zm.3 .1zm.1 0zm.1-.2zm0-.4zm-.1-.2zm-.2 .1zm.4-.2zm.1 .1zm.2 0zm0 .2zm0 .3zm.1 .3zm.1 .2zm.1 .1zm-.3 .5zm.1 .1zm-1.1 .7zm-.3-.1zm-.3 0zm-.5-.1zm.7-.6zm.1 0zm.1-.1zm-.1-.2zm-.4 2zm-.1 0zm-.3-.1zm1.7 .6zm.7-3.9zm.2-.4zm.2-.4zm.1-.5zm.3 .1zm.1 0zm0 .2zm.5 .7zm-.1 .1zm.2 .5zm1.1 .6zm.6 0zm0 .3zm.1 .1zm-.2 0zm.7 .2zm.2 .4zm0 .2zm-.2 0zm1.1-1.4zm.1 0zm1.2 .5zm.2 0zm-.2 .2zm.6-.6zm.3 1.9zm.4 0zm-.1 1zm.2 .1zm.1 .2zm.1 .1zm0 .1zm-.2-.1zm.3-.3zm.2 .1zm.2 .3zm-.1 .1zm.5 .4zm0 .4zm-.4 0zm-.3-.1zm-.2 1.3zm-1.1-.8zm2-1.8zm.6-1.7zm.1-.6zm.4-.3zm.1 0zm.1-.3zm.6 .3zm.1 .5zm-.3 0zm-.2 0zm0-.1zm-.2 .4zm-.1 0zm.6 0zm.6 .4zm1.3-1.2zm1.1-.7zm.3-.2zm-.2-.2zm.3-.3zm.3 0zm.1-.1zm0-.1zm.1 .2zm-.2 .2zm0 .2zm.3 .1zm-.3 .3zm.8-.8zm.4-.2zm.1-.1zm.1 .6zm-.8-1zm-.3 0zm-.2 0zm-.1-.2zm-.2-.4zm-.4-.3zm-.2-.2zm-.1-.2zm-.1-.2zm-.2 .2zm-.2 .2zm-.1 .8zm-.1 .1zm.9 .4zm.6 .1zm.8-1zm.3 .1zm.2-.4zm.4-.3zm-1.1-.8zm.1-.3zm.1 0zm.5-.3zm0-.5zm0 0zm-.5 0zm-.4 .3zm-.3 .2zm-.2 .1zm0 .2zm.1 .3zm.1 .2zm-.3 .5zm.4 .1zm0 .2zm-1.2-.8zm-.2 0zm0-.6zm-.1-.5zm.1-.1zm.2-.1zm-.3-.3zm-.1 0zm.1-.2zm.1 0zm.3-.3zm-.1-.6zm.1-.5zm.1-.2zm-.2-.1zm-.3-.2zm0 0zm-.8-.2zm-.3 .9zm0 .5zm-.1 .1zm-.2 0zm-.1 0zm1.1 0zm-.1 1zm.2 .1zm-1 0zm-.2 .3zm.5 .5zm.2 .4zm-.4 .6zm-.3-.1zm2.4-1.6zm.6-.2zm0-.3zm-.2-.3zm.8 .1zm.1-.2zm-.2-.8zm1.2-.1zm.1-.3zm.5 1.2zm-.1 .6zm.4 0zm.2 .1zm.2-.1zm.3-.2zm-1.3 1zm-.2-.2zm2 1.1zm.2 0zm.1 .1zm0 .3zm.3 .2zm-.4 .3zm-.2 0zm0 .3zm-.7-.2zm0 .4zm4.1 .8zm0 .1zm.6 .5zm-.3 .4zm-.3 0zm1.3-.8zm.7-.7zm0-.2zm-.4-.2zm.1-.6zm1.6 3zm.5 .6zm-3.8 2.3zm-1.9 .9zm-.4 0zm-.3 .6zm-1.9 0zm-.8-1zm0 0zm-.1-.5zm-.6 .1zm-1.4 .7zm-.5-.5zm-.4-.6zm0-.1zm-1 .3zm0 0zm-.2 .2zm0 .4zm-.3 0zm0 .3zm-.1 .5zm0 0zm.3 .1zm.1 .5zm-.3 0zm-.5-.7zm-.9 .5zm-.2 .2zm.2 .1zm-.7-.2zm.2-.5zm1.7 1.7zm.1 .1zm.5 .1zm.9-.7zm0 0zm.4 .8zm.2 .1zm-.7 1.7zm-.6-4.5zm-7 4zm.4 .9zm.2 .1zm-.6 .3zm-.1 0zm0 .4zm.4 .2zm-.8-.7zm-.4 0zm-.4 .1zm2.9 .7zm.7 .9zm-.3 .3zm-1.8-12.7zm.3-1.5zm-.8-.6zm-.3 0zm.8-1.1zm.3-.1zm.2 .5zm.4 .4zm.4 0zm.5-.2zm0-.3zm.6 0zm-.6-1zm-.5 .5zm-.2 .2zm-.3-.9zm0-.1zm-.3-.4zm-.1-.4zm0-.2zm.3 .2zm.2 0zm0 .1zm.1 .1zm-1.2-.1zm-.3-.4zm-1.2 .3zm-.1 .2zm-.1-.4zm-.4 .7zm-.1 .1zm-.2-.1zm.2 .5zm.4-.3zm.6-.1zm-.9 .9zm-1 .1zm-.4-.6zm-1 .5zm-.1 0zm-.5 0zm-.4 .8zm-.2 0zm-.2 .2zm-.4-.6zm-.8-.8zm-.3 .1zm-.4 .4zm-.7-.1zm.2-.4zm.1-.4zm-.7 .6zm.1 .6zm.5 .2zm.7 .2zm-.4 .5zm-.5 .1zm.9 .6zm-.1 .5zm.6-1.1zm.6 .2zm2.2-.9zm.7 .5zm.6 .4zm.5 .3zm-4.4-2.8zm-1.8-3.3zm3.4-1zm1.3 1.7zm.3-.1zm2.4-.3zm.1 .2zm1-.3zm.1 .3zm0 .2zm.6 .4zm.6-.4zm.4-.9zm.3 .2zm.5 1.4zm.1 0zm.5 .4zm.1 0zm-.3 .3zm-.6 0zm-2.1-2.4zm-1-1.6zm-.2-3.1zm-.4-2.1zm-.1-.7zm-.8 .2zm-.3-.9zm0-.1zm.5-.2zm-.4-.4zm-.2 0zm-.5 .2zm-.1 .6zm-.7-.3zm-.3-.1zm-.6 .1zm.1 .3zm0 .4zm-.4 .4zm0 .8zm-.7-1.9zm-.2-.3zm.2-.6zm-.6-.6zm1.4-.1zm.6 .1zm.2 .2zm.5-1.5zm-1-.6zm.2-.8zm-1.4-.6zm-.7-.7zm.4 2.3zm.8 .3zm-2.6 .9zm-.4-.3zm-.1-.2zm-.5-.3zm.4-.5zm-.8-.2zm-.4-.8zm-.6-.3zm-.2 1.5zm-.9 .3zm.9 1.2zm1.1 1.1zm.4-.1zm.3-.1zm.1 .2zm.1 0zm.3 .5zm.2 .2zm.5 0zm.1 .3zm.4 .3zm-.5-1.4zm-.5-.3zm-.5-.7zm-.2 2.1zm-.8-.1zm-.7 .4zm.2 .5zm1.4 .8zm1.6 .2zm-.3 1.1zm5.9-3.8zm.1 .1zm.3 .2zm.5-.2zm0-.1zm.1 .5zm.2 0zm.4-.3zm.4 .2zm.7 .3zm.4 .5zm-1 1.1zm-.5-2.8zm-.2-.5zm-.2-.3zm.2-.3zm0-.8zm.6 0zm.5-1.1zm-1.1-1.2zm-.2-1.4zm-1.1 .6zm-.9 2.3zm.8 .7zm.6-.4zm.2 .7zm0 1.2zm-.7 .2zm2.6-.1zm.1-.1zm0 .3zm.3-1zm.9 .3zm.1-.2zm.5-.1zm0 .9zm-.7 .1zm-.1 .4zm1.9-.4zm1.2 .3zm.1-.4zm.2-.8zm1.2-.5zm.3 .3zm1.2-1zm0-.2zm.3 .7zm-4.2-.1zm-.7-.2zm-.2 .1zm2.1 4.5zm1 .2zm2.6 2.3zm.9 3.6zm.2 .4zm-5.4-2zm10.7-1.6zm.6 .7zm0 .1zm1.5-1.1zm.8-1.2zm-.2-.2zm.1-.1zm.5 0zm.1-.1zm0 .4zm.5-.1zm0-.3zm-.6-.7zm-.4-.4zm.5-.3zm.2-.2zm-.4-.1zm0-.3zm.3-.1zm.5 .3zm.3-.3zm0-.3zm0-.2zm-.4-.1zm.6-.6zm.7-.3zm.3 .3zm0 .1zm-.2 .5zm-.1 .2zm-.1 .2zm-.2 .4zm-2.1-.4zm-.5 1.4zm-.4 .5zm.5 .2zm-.4 4.7zm-.2 .1zm10.4 9.4zm.1 .1zm.2 .1zm.1 0zm-.4 .3zm-11.5 8.9zm-25.8-10.1zm-1.4-.1zm-.1-.1zm-.1 .1zm.1 .2zm-1.1 .7zm11.9-24.8zm1.7-1.8z"/>
<path class="pt" stroke="#1f77b4" stroke-width="0.5" opacity="0.45" d="M222.2 322.3zm1.1-1.2zm.3 .2zm.7 1zm.5-.4zm.1-.2zm-.1 1.2zm-.9 .7zm.1 .2zm1.8 .2zm.4 .3zm1.3-.9zm.7-.8zm.7 .1zm.6-.5zm0-.9zm1.1-.7zm1.1-.1zm.4-.5zm-2.1-1.6zm-1.9-.5zm-.3 2.4zm.2 1.5zm2.4 .8zm.5 1zm.3 1.3zm.1 .1zm.2 .8zm1.2-.5zm-.2-.5zm1 .7zm-.8 1.1zm.6 .3zm1-.2zm1.7-1.1zm.2-.5zm.4-.7zm-.5-.8zm.1-.3zm-1-.6zm-.3 .2zm-.6 .8zm.2-2.6zm1.9-1.1zm0-.1zm.4-.2zm.8-.2zm.8 .2zm.3-.2zm0 1.7zm.4 .6zm-.6 .9zm1.4 .3zm-.1 .4zm-.4 .5zm.4 .2zm-.6 .6zm-1.4 .4zm-.1 0zm.5 .8zm.5 .8zm-1 .5zm2 1.5zm1.1-2.1zm.4 0zm.8 .1zm.1-.1zm.2-.1zm.1-.5zm.3 .1zm.5 .1zm.2-.2zm.5 0zm.1 0zm.2 0zm.1 .2zm-.5 .1zm0-.9zm-.8 .2zm-1 .3zm-.2 0zm-.1-.6zm.1-.2zm-.6-.2zm-.2 .5zm-.4 .4zm.1 .1zm.7-1.9zm.3-.4zm-.3-.4zm.6-.5zm.4 .2zm.7 .2zm.2 .2zm.3 0zm0 .1zm0 .2zm.2 .3zm-.2 .1zm-.7 .1zm1.4 0zm0-1zm-.4-.2zm-.3-.1zm.5-.2zm-.1-.7zm.4-.2zm-.2-.3zm-.1-.2zm-.3 .2zm.2-.6zm.1-.4zm.3-.7zm.5 .6zm-.1 .4zm-.1 .3zm.5 .6zm.7-.1zm.6-.1zm.1-.2zm-.1-.2zm.4 .3zm.3 .2zm.3-.4zm.2 .1zm.1-.2zm.1 .1zm.3-.2zm-.4-.6zm0-.2zm-.3-.1zm0 .4zm-.4 0zm-.1 .4zm-.3-.6zm-.3 0zm-.1-.5zm-.1-.3zm.2-.1zm.3-.3zm.3-.1zm.3-.2zm0-.4zm.6 .4zm-.1 .4zm0 .2zm0 .1zm-.2-.3zm.8-.3zm.2-.2zm.3-.1zm.3 .4zm.1 .3zm-.1 .1zm.3 .2zm.3 .1zm-.2 .3zm-.2 .2zm-.1 0zm.1 .2zm0 .1zm0 .1zm0 .1zm.2-.1zm.1 0zm.2-.2zm.2 .1zm.2 .3zm.3 .2zm.3 .2zm0 .1zm.1-.2zm.3 0zm.1 .2zm0 .2zm.3 0zm0-.3zm.4 .2zm.1-.2zm-.1-.2zm-.2-.4zm-.3 .1zm-.3-.1zm-.2-.2zm-.4-.5zm-.2-.3zm-.6-.3zm.6-.4zm.2-.1zm.2 .1zm.2 .2zm.2-.5zm.4 .2zm0 .2zm.1-.6zm-.4-.5zm.4-.2zm.7-.2zm.2 .2zm.1 1zm-.2 .2zm.2 .2zm.3-.2zm.2 .4zm-.4 .2zm0 .2zm-.1 .1zm-.1 .2zm.1 .1zm-.1 .1zm-.1 .2zm.3 .2zm0 .1zm.1-.2zm.4 .1zm.1-.2zm.1 .5zm-.4 0zm.1 .3zm-.3 .2zm-.1 .4zm-.1 .1zm-.1 .1zm.1 .1zm.2-.1zm-.6-.2zm.1-.2zm-.1-.2zm-.2 .3zm0 .4zm0 .1zm-.2 .3zm-.2 .2zm0 .3zm.3 .2zm0 .2zm.3 0zm.1-.4zm.2 0zm.1-.2zm0-.2zm.5 .1zm.4 .7zm.1 .7zm-.3 0zm-.2-.1zm-.2-.1zm-.1-.1zm-.1-.1zm0-.3zm0 .8zm0 .2zm-.2 .1zm-.3 0zm0 0zm-.2-.1zm-.1-.1zm-.3 0zm-.1 .1zm-.1 0zm-.2 0zm-.2 .1zm-.2-.1zm-.1 .1zm.1 .2zm.3 .3zm0 .2zm-.1 .1zm-.3 0zm0-.1zm-.1 .5zm-.4 0zm-.2-.2zm-.4 .1zm-.1 0zm-.1 0zm.1 .2zm0 .1zm-.1 .2zm-.1 .1zm-.3 0zm-.3-.1zm0-.2zm0-.2zm.5 .1zm0-.5zm-.1-.1zm-.2 0zm.4-.2zm.1 0zm0-.1zm.1-.4zm.2 0zm0 .1zm.1 0zm.1 0zm-.1-.2zm0-.3zm.1 0zm-.1-.3zm-.1 0zm-.1 .1zm-.3-.2zm-.1 0zm-.2-.1zm-.2 .3zm.3 .4zm0 .1zm-.8 .2zm-.2-.3zm0 0zm-.4 .2zm-.2 .1zm-.1 .2zm-.1 .2zm.2 0zm.4 0zm.2 .1zm-.5 .6zm0 .3zm0 .3zm-.1 .3zm.2 .2zm-.5-.2zm-.8 .2zm-.7 .4zm.2 .3zm.1 .2zm.3 .5zm.7 .2zm1.6-.8zm.2-.2zm.1 0zm.3 0zm.1-.3zm.2 .1zm-.6-.4zm-.1 .2zm-.3-.3zm0-.5zm0 0zm-.5-.1zm-.1 0zm-1.1-.3zm.1-.3zm-.7-.1zm-.1 .2zm0 .2zm-.2 .3zm-.3-.2zm-.1-.4zm-.5 0zm-.1-.2zm-.1 .3zm.2 .2zm-.1 .3zm-.1 0zm.3 0zm-.2 .5zm-.4 .1zm.9 .3zm-.4-2zm.8-.5zm0-.2zm.2 .3zm-.1 .1zm.3 .3zm.2 0zm.1-.1zm-.3-.8zm-.1 0zm.1-.3zm-.1-.2zm-.1-.4zm-.1-.2zm-.1 0zm0 0zm0-.2zm.3 0zm0 0zm-.3-.4zm-.1 .1zm.2-.2zm-.6 .7zm.2 .5zm-.2 .2zm.2 .3zm1 0zm.1-.3zm.2 0zm.2 .2zm.2 0zm.1-.3zm0-.1zm.3 .1zm.1-.2zm.1-.2zm0 .6zm-.2 .1zm-.1 .4zm.8-.6zm.4-.4zm0 0zm.2-.2zm-.2-.1zm.4-.3zm0-.2zm-.2-.3zm.4-.1zm-.1-.3zm-.3-.6zm-.3-1.2zm-.6-1.8zm.3-.5zm-.2-.3zm1.1-.2zm1.3 1.1zm1 1.5zm.3 .4zm.3-.5zm.2 .2zm0-.5zm1.3 0zm.2 .3zm.4 .2zm.2 .2zm0 .5zm-.1 .2zm-.5 .1zm-.2 .4zm0 .2zm.3 .5zm.3 0zm.7-1zm.2-1.5zm0-.6zm-.1-.3zm-.4 .1zm0 .1zm-.1 .2zm-.2 .1zm-.2-.2zm-.1-.1zm-.2-.1zm.1-.6zm.6-.5zm.3 .1zm0 0zm.2 .1zm-.1 .2zm-.1 .1zm-.1 0zm0 .1zm0-.3zm.5 .1zm.3-.4zm0-.1zm.3 .2zm.1-.2zm.1 0zm.2 .6zm-.6 .2zm-.5-.8zm0-.3zm-.7-.2zm.2-.4zm1.6-.7zm.4 .2zm.1-.2zm.1 .6zm0 .2zm0 .9zm.2 .2zm-.1 1.1zm-.9 .3zm-1.7 .3zm-1.8 1.6zm-1 .8zm-.1 .3zm-.3-.1zm-.2 .5zm.3 .1zm.1 .7zm0 0zm-.1 .1zm.3 .1zm.2 .2zm-.1 .1zm-.2 0zm-.1 0zm-.2 0zm-.2 0zm0-.1zm-.2 .2zm0 .1zm-.3-.1zm0 .3zm-.2 0zm0 .1zm.1-.9zm-.4-.1zm0-.3zm0-.2zm-.1 0zm-.2 .1zm.1-.3zm.2 0zm.2 0zm.1 0zm.1-.1zm0-.2zm-.1 0zm.2 0zm0-.1zm-.1-.1zm0 0zm.2 0zm0-.2zm-.1-.1zm-.3 .2zm.1-.7zm-.7 1.2zm-.1 .1zm-.1 .1zm0 .1zm0 .4zm1.5 .1zm1.2 .4zm.4 .4zm.3 .6zm.2-.1zm.3-.1zm.2 0zm.4-.1zm.1-.5zm-1.4 .9zm-.1 .1zm-.1-.1zm0 .2zm-.1 0zm-.1 .1zm-.1 0zm0 .1zm0 .2zm.2 .3zm-.1 .5zm-.1 .1zm0 .1zm-.5 0zm-.5-.6zm-.4 .3zm1-.7zm0 0zm.2-.5zm0-.4zm-.5 .1zm1.3 .6zm.1 .1zm.2 .6zm.5-.2zm-2.5 4.8zm-4.1-7.2zm.3-.4zm-.1-.3zm0-.1zm-.1 0zm.7-.2zm.2 0zm0-.4zm-.2 0zm0-.3zm-2.3-1zm0-.5zm0-.2zm-.1-.1zm.1-.2zm.1-.2zm-.4 .6zm.8-1.4zm-.2-.7zm.8-.6zm-1.2-1.3zm-.6 1.6zm-.3 .1zm-.2-.1zm-.3 0zm-1.6-.4zm-.9-.9zm-1.1 0zm-.1 .9zm-1.7-.4zm-.7 .6zm-.5 .3zm-.2 .2zm-.5 0zm-.4 .1zm-.1 .5zm-.3-3zm-.4-.4zm-1.1-1.1zm-1.1-.4zm.8-1.8zm2.3 1.1zm1.1 2.3zm.6-.1zm.7-1.2zm1.3 .5zm.7 .2zm.3 4.7zm.3 1.1zm0 .2zm-.4 .9zm.1 .1zm-.7-.5zm-.2-.3zm.1 2zm.3 .8zm2-1.7zm0-.1zm-.3-.4zm1.3-1.7zm-1.1-.7zm3.6-4.9zm-.1-2.3zm.3-.4zm1.1-1zm.5-1zm-1.3-1.4zm2-.6zm1.5 2.5zm-.1 .8zm1.2-.4zm.9-.2zm0-.7zm-.3-1.4zm1.2-1.1zm.9-1.7zm-.9 6.3zm-5 .4zm-7.7-5.3zm-.7-.7zm.4-.4zm-.5-1zm1.8-1.8zm1.4-.9zm-3.3-.6zm.3-1.4zm-2.7 1.5zm-.5-1.2zm-2.2-1.3zm0-1.2zm.5-.6zm-2.2 .9zm-.3 .9zm-.7-1.7zm-1.8 2.3zm1.3 1.2zm-.8 .5zm.1 1.8zm1.2 1.6zm.7-.1zm1.1 .9zm.2-1.5zm1.5-.6zm.8 .7zm1-1zm-3.2-2.4zm4-3.5zm.1 .1zm-3.1 9.4zm-.2 0zm-6.5 .5zm-1.1 1.8zm1 2.3zm1.8 1.3zm-4.6 1.9zm.4-9.1zm1.4-1.7zm.6 0zm.4-.7zm.5 0zm-.1-.8zm-1.2 .7zm-.2 .2zm-.9-.1zm-.8-.7zm-.2-.4zm-.1-.3zm-.6-.4zm-.6-.3zm2.3-.1zm.7-.5zm-2.9 3.4zm-.6-.5zm4.6 22.3zm1.3 2.2zm3.7 2.9zm1.2 .1zm.3-.2zm-.1 1.5zm.6 .1zm0 .2zm.1 .5zm.4 0zm.3 .1zm7-3.8zm.3 .1zm0-1.8zm0-.1zm-5.5-3.3zm-.8-1.9z"/>
<path class="ps" stroke="#150a35" stroke-width="1.0" d="M303.4 499.4zm2.2 1zm0 1.1zm-.5 0zm-.4 .3zm.4 .3zm.8 .8zm.9-.8zm1.4-.1zm.8-.5zm-.2-.9zm-1.1 .2zm2.4-.7zm.2-.7zm1.9-.1zm-.2-.9zm1.2-.1zm.3 .9zm.3 1.1zm-.6 .6zm1.1 .9zm-1.3 1.3zm-1.1 1.1zm-.4 .8zm-.9 0zm-.4-.6zm-.1-.1zm-.8-.9zm.9-1zm.5-.8zm-2.6 3zm2.3 1.7zm.6-.4zm1.5 .4zm.7-1.6zm2.4 .8zm.5-.6zm2.3 1.8zm.6 .2zm1.4 1zm1.8-1.3zm-.5-1.4zm-.5-.7zm.1-.4zm.9-.2zm0-.3zm.9 .8zm-.2 .2zm.6-.3zm.3-.3zm2-.1zm-.1 .9zm2.3-.1zm.7 1.2zm-1 .3zm2.5 1.2zm1.8 .6zm.2 0zm1.6 .8zm1.1-.2zm1.1-1zm-.2-.2zm1.4-1zm.8 .1zm-.3 .9zm-.2 .3zm1.1 1.5zm2.3-.7zm.3-1.3zm.5-.7zm-.4-1.9zm-1 .2zm-.8 .4zm.2 .9zm-1.2-.6zm-1.2-1.3zm-.4-.3zm-.6 .4zm-.3 .3zm.2-1zm-1.1 .4zm-1-1zm-.5-1.6zm-.1-1zm-1.7 .7zm.5 1.4zm-1 .3zm-.1-.1zm-1.3 .1zm-.2-.3zm-.2-.4zm-.7-1.3zm1.2-1.1zm.9 .2zm.5-.4zm.9-.7zm-.7-.7zm.3-1.5zm.4-.4zm.2 .2zm-.7-.6zm-.2 .1zm-.3 .4zm-.8 .6zm-.2-1zm-.1-.2zm-.2-.5zm.5-.6zm-1.3-.2zm-.7 .4zm.2 1.3zm-.9 .4zm-.6 .6zm-.1 .6zm.1 .8zm.7 .1zm.4-.6zm-.2-.7zm1.2 0zm-2.6-1.5zm-.3 .4zm-1-1.5zm1.5-1zm-.5-2.5zm.9-.5zm-2.4-.6zm-.1 .3zm-1.2-.3zm-1.1 .4zm-1.2-.2zm-.8-.1zm-.4-.3zm-.1 .3zm.4 1.4zm.7 .3zm.2-.1zm-.1 .3zm.2 .4zm-1.9 1.3zm-1.4-.5zm.2-2zm-2-.9zm-1 .4zm.8 1.9zm-1 2.6zm-.3 1.5zm-.5 .4zm.1 .4zm1.2 .2zm.9-.2zm.9-.3zm1 1.8zm.1 1.2zm.5 .8zm-.3 .5zm-1 .8zm-1.5-1.9zm-1-.8zm-3.1-3.2zm.4-2.8zm-.8-.4zm-.2-1.7zm0-.4zm.2-1.1zm-1.6 2zm-.5-.3zm-.3 .4zm.3 .7zm-1.3 .2zm-.4 1.3zm.4 .7zm.9 .1zm-4 .7zm3.9 14.2zm-.6 .3zm2.5 1zm-.3 .7zm.2 .4zm-.7 .5zm2.1-1.6zm.7 .2zm5.5-1.7zm3.2 .2zm.2-.5zm.5-.3zm1.6 .1zm.5-.8zm2.3 .8zm1.2-.1zm1.3 .3zm2.8 .4zm.7 .2zm.4 .2zm-1.3 .5zm1.6 1.3zm.5 .2zm-.5 .5zm1.3 .7zm.6 .7zm.7-.2zm.8-.7zm-.3-.4zm-.6-.2zm1.4 0zm.2 1.1zm.5 .2zm1.2 1.8zm1.4 .8zm.7 0zm.7-.8zm-.1-1.5zm.7-.2zm.3 .1zm-.1 .2zm-.3-.7zm-.1-.3zm-.4-.4zm.1-1.2zm0-.2zm.1-.7zm.2-.2zm-.6-.5zm-.6 .9zm-.4 1.1zm-2.8-.7zm-2-1.7zm-2-3.1zm-.5-.2zm-1.4-.6zm-.1-.5zm-.7 .4zm-.8-.4zm-.6-2zm-3.1-3.9zm-2.2-2.1zm-.2 0zm-.5 .1zm-.2-.2zm.1-.2zm-.7-1.8zm-1.1 .4zm-1 5zm-.8 2.6zm-.4 .9zm3.1 7.3zm1.5-.1zm.3 1.5zm1 .4zm.6 .1zm.9-1.5zm-2.2 3.8zm5.8-.2zm1.1 .2zm.7 2.3zm.1 3.6zm5.5 2.4zm.5-.7zm7.3-2.3zm1.5-1.8zm0-1.1zm-.4 0zm.8-.4zm.4-.3zm-.8-.4zm-.5-.4zm.4-1.6zm1.3 .8zm1.8 1.6zm-.3 .5zm.5 .8zm.6 .7zm1.1-2.2zm.2-1.8zm-.2-.8zm.5-1.6zm-.4-.2zm-.9 .2zm-.5-2.1zm.7-.8zm1.3-.7zm.4-.3zm-.3-.6zm.2-.3zm-1.5-.2zm-.1-.9zm-.1 0zm-.8 .6zm1.5-1.6zm-1.4-1zm-.3-1.1zm-.2-1.8zm-2 .5zm-.1 1.3zm-.2 .4zm.7 0zm-1.6 2.4zm-.3 2.9zm1.5 1.8zm-.3 .6zm-.5 0zm0 .5zm-2 .2zm-.1 .6zm-.7-.6zm-.5-.1zm.2-1zm.8-.2zm-.1 2.8zm-1.7-5.1zm-.7-1.1zm1.4-2zm.7-2.8zm.8-.7zm.6-2.3zm-.9-1.4zm-.8 .2zm.2-.8zm.4-.6zm1.8 .2zm.6-.6zm.4-.7zm.5-.5zm-.1-.1zm.1-.6zm-1.5 .1zm-.3-.1zm-1.9-1.8zm-.9-1.1zm-.1-.8zm-.9-.6zm-.5-.6zm-.3 1.3zm1.8-1.6zm1.3-.9zm1.5-1.4zm-2.2-1.4zm-2.4-1.6zm.4-1.1zm1.3-2.5zm.2-1.3zm-1.7-2.4zm4.2-.6zm.8 1.2zm.8-.7zm-.1-1.8zm.5-.2zm1 .7zm.4-1.7zm.8-.4zm.1-.7zm-.6-1zm2.1 3.5zm.3 .3zm2-2.7zm1.6-.1zm1.1 0zm-1.1-1.6zm3.5 .5zm.1 .9zm1.4-.1zm.8 .2zm.1 .5zm.1 .4zm-1.8 .5zm1.1 1.9zm.3 .3zm-.2 1.2zm-1.1 1.8zm-.9 .5zm-1.5 .3zm-.5-.5zm-1.7 1.7zm1.3 3.3zm-1.2 .5zm-.2 1zm-1-1.1zm1.8 2.5zm-.7 .5zm-.2 .5zm-.4 1.4zm-.1 .6zm.3 .3zm.5-.1zm.9 .1zm.6-1.1zm0-.6zm1.4 1.3zm1.5-.5zm1.8 .4zm1.2 0zm.8 .5zm1 1.4zm-1.3 2.1zm-.6 1.2zm-.4 .2zm-.5 .9zm-.5 1.1zm-.4-.2zm-.4 .2zm-.8 .8zm1.7-.1zm.6 .1zm.6 1.6zm.4 1.7zm-.7 1zm.5 .5zm-.6 .9zm-.6 .2zm.6 .6zm.5 .2zm.4 .1zm1.4-.2zm1.5 1.1zm.3 .3zm1 .9zm.6 1.2zm.7 2zm.6 .1zm2.1-1.5zm-.7-1.2zm.4-1zm.2-1.4zm-1.5 .1zm-.2 1zm-.1 .2zm-1.9-1.8zm.5-.8zm.6-.1zm.1 .1zm1.3-.6zm-.5-.9zm-1.4-.5zm-.8-.7zm-.3 .4zm-1 1.7zm-.2-3.5zm-.3-.9zm-1-.2zm-.1-2zm-.5-.1zm1.5-.5zm1.5-.5zm0-.3zm1.5-.6zm.1 1.2zm1.2 .4zm.3-.4zm.2 1.7zm0 1.8zm2.1 .7zm.7 .6zm0 1.2zm.5 0zm-1.2-.1zm.2 .8zm1.7 1zm1.7-1zm.6 0zm1.1 .5zm.6 .7zm-.1 .4zm-.3-.1zm.5 .5zm0 .3zm-.9-.1zm-.6-.5zm-.9 .6zm.2 .9zm.7 0zm.8 .2zm1.5-.1zm1.9 .4zm.5 1.3zm-1.6 1zm-.9 .9zm-1.2-.5zm-.8 1.9zm.3 1zm.5-.2zm.2 1.3zm.2 .2zm-.3 .3zm.1 .9zm.8-1.1zm.2-.3zm.5-.2zm.6-.3zm.2 .6zm-.2 .1zm-.4 .8zm.4 .6zm.9-1.4zm.6 .4zm.3-.5zm.9 1.4zm1.1 .3zm-.2-1.2zm0-1.4zm-.9-.7zm.9-.5zm-.2-.4zm.1-.8zm0-.3zm.5-2zm-.6-1.6zm.8-.5zm-.5-1.2zm1.5 .3zm.6-.5zm1.5 .8zm-.3-2.1zm1.7-2zm1.1-.7zm0-.9zm1.8 .5zm.5-1.7zm1.3-1.2zm.7 .5zm.5 .1zm.1-.7zm.4-.6zm-.2-.1zm-.5-.2zm1 .7zm1.8-.7zm.1-2.2zm1-.6zm.5-1.4zm.4-.4zm.4 1zm.1 0zm1-1.5zm.8-.8zm.3-.8zm-.3-.8zm-.1-.5zm.7 .2zm-.1-1.3zm.2-.6zm1.4 .8zm.6-.2zm.6-.8zm1-.2zm.8 .8zm.5-.4zm0-.6zm0-1zm1.1-.6zm-.1-1.2zm1.3 0zm.2 .2zm.3 .6zm.9 1.2zm.8-.2zm0 .9zm.3 .6zm.4 .5zm.2 .3zm.1-.1zm-1.4-.4zm-1.1 1.8zm.4 .4zm1.1 .4zm.2 1.1zm-.7 .4zm-.7-.1zm.9 1.3zm.2 1.4zm.5 .3zm-.8 .5zm-.8-.7zm-2-1.1zm-.3 .3zm.1-1.7zm.4-.2zm-1.2-1.1zm-.5 .2zm-1 0zm.5 1.1zm0 0zm-1.5 .2zm1.3 1.8zm.1 .2zm.4 .8zm-.4 1.1zm.8 .9zm.8-1.4zm1.1 .9zm2.6 .3zm.9 1.5zm.2-.1zm-.5 1.2zm-.3 .3zm.7-.1zm1.4 1.6zm-.4 1.2zm-1.1 .6zm-.9-.1zm-.3 .8zm.1 .1zm.7 .2zm-.5 .8zm-1.1-.4zm-.2 .4zm-.2 1.4zm-1 .1zm-.6-.6zm-.1-.5zm0-1zm1-1zm.2-1zm-.4-.1zm-.2-.9zm-.2-.8zm.4 0zm-1.3 2.1zm-1.5-1.4zm-.7-.2zm-.6 .4zm.2 .3zm-1.1-.3zm-.2-.1zm-.1 1zm.3 0zm.2 .3zm.6 .8zm.2 1.5zm.2 0zm.4 0zm-.1 .9zm1.3 .1zm.3-.6zm-.2 1.6zm.1 1.1zm-.1 .8zm-.2 1zm.1 .8zm-.3 .4zm-.2 .3zm.2 .3zm-.6 .3zm-.3-.9zm.3-.4zm-.9-1.2zm-.5-.3zm-.5-.3zm-.3-.8zm.5-.5zm1.1-.4zm.3 0zm-2.6 1.2zm-1.4-.1zm-.1-.2zm-.8 .8zm-.4 0zm-.9-.4zm.3-.4zm-1-.4zm-.7-1.1zm-.4-.8zm-.2-1zm-1-1.5zm.8-.7zm-1.3-1.2zm-.2-.9zm-1.1 1zm.3 1.2zm-1.5-.8zm.8-1.7zm-.8 3.9zm.3 .6zm-.1 .8zm-.7-.6zm-.5-.5zm-.8-.9zm-1.9 0zm-.2 0zm.6 1.9zm.6 2.4zm1.2 .8zm-1.6 .6zm.9 2.5zm1.7 .8zm1.3 .5zm1.4-.4zm.5 0zm.8 .4zm.9 0zm1.5 .2zm.2 .4zm.9-.5zm-.5-.7zm.6-1.5zm1.3 2.1zm.7 .3zm.8-.3zm-.2 1.8zm.9 1zm1.3-1.1zm-.2-1zm0-.4zm.6-.3zm1.3-.3zm.2-.5zm.5 .1zm.6 .9zm-.1 1.3zm3.2-.5zm-.1 1.5zm.3 1.2zm-.4 1zm-1.2 .3zm1.9 .9zm1.5-.1zm1.9-.5zm1.6 .3zm-.4 1zm-.6 .4zm.6 1.2zm.5 .3zm1.2-.2zm.5-1.2zm-1.2-.3zm0-2.8zm-.1-.9zm-1.3-.2zm-.6 .1zm-.3 .1zm.3-1zm.8-.1zm-.1-.8zm2-.8zm.2 .9zm.7-.5zm.4-.2zm.6 .1zm-.5 .8zm0 .5zm-.3 .9zm-.5 .5zm4-.9zm0-1.2zm-.4-.3zm-.6-.6zm1-.4zm1.4 1zm1.1-.7zm1.1-.4zm-.5-.7zm.4-.5zm-.5-.3zm.7-.4zm.6-.1zm.3-1.1zm.2-1.3zm.7 .1zm.4-.5zm-.3-.3zm.1-1.4zm-.6 0zm-.6 0zm-.9 .1zm-1-.3zm.1-.3zm-.6 .9zm0 .4zm-1.3-.4zm-.1 1.2zm1.2 1.1zm.4-.4zm.2 1.1zm-.8 1.9zm.2 .5zm1.4 2.5zm-.7 1.5zm-1.3 0zm4.2 1.3zm1.8-2.6zm-1-1.3zm-.3-.5zm-.4 .2zm1.9-.2zm.1-.9zm.1-.2zm.3-.1zm-.1-.4zm.4 0zm.6 .2zm.3-.6zm.5-.6zm.7-.4zm.7-.2zm1.3-.5zm1.2-.1zm.7 1.3zm-1.2 1.2zm-.3 2.1zm.7 .4zm-1.5-.6zm-.5 1.6zm-2.3-.7zm1.3-1.8zm-.3-.5zm-1.5-1.9zm-.2-1.6zm-.9-.3zm-.6-.5zm.1-.6zm.1-.3zm-.5-.3zm-.4-.8zm1.1-.3zm.7-1.4zm-1.2-.2zm.2-.8zm-1.3-1zm-.1-1.1zm-.2-1.1zm-.7-.9zm-1.1-.5zm-.8-1zm.1-.2zm.7-1.5zm.3 .1zm.3-.8zm.9-.4zm.1 1.1zm.8 .6zm.8-.7zm.6 .9zm.7-.9zm.5 .7zm-.4 1.5zm-.6 .5zm-.2 .5zm1.9-1.1zm.5-.1zm.6-.7zm.6 .9zm-.3-2.3zm-1.1-1.3zm.6-1.7zm-.1-.4zm.4 0zm.2-.4zm-.5-1.7zm-.2-1.5zm.4-.5zm-.2-.7zm-.5-.9zm.1-.7zm-.6-1.1zm.9-.7zm1.3 .8zm.3-.1zm.5 1.9zm1.8 .2zm.9 1.4zm1.8 .6zm.1 .1zm1 1.1zm1.8-.5zm.8-2.2zm.2-2.3zm-.3-1.4zm-1.6 .9zm-.2-.4zm-.5 1.2zm-.7 .6zm-.3-.3zm-.5-.9zm-.8-.1zm-.5-.7zm.2-2.5zm3.3-.8zm.3 .9zm-.2 .3zm.7-.6zm.4-.4zm.2-.7zm-.7-.4zm-.1 0zm-1.3-.5zm.8-1.7zm-1-.6zm1.4-.9zm-.9-1.1zm2.2 2.7zm-.1 1.2zm2-.2zm1.2 1.2zm.5-1.2zm.5 .3zm.7 2.5zm-2.5 1zm-1.8-1.4zm3.3 5zm4-1.2zm1.4-2.4zm-1.1-2.2zm-.9-.9zm.1-3.8zm.2-.8zm.8 .9zm-1.9-2.9zm.6-.6zm-2.4-.1zm-9.2-.1zm-1.6-6.3zm.4-.6zm-.6-1.9zm-2.1 1.5zm1.4-7.1zm.3-1.2zm-2.9-2.5zm-.7-.1zm-.3-.1zm-.3-.6zm.6 1.8zm0 .1zm-2.3 .6zm-.8 .1zm-.7-4zm2.5-1.8zm-.4-1.2zm.3-.3zm1.1-.9zm.4 .9zm.9-.2zm-.2 3.4zm-4-3.8zm-1.8 1zm-.3 .2zm-1.8-.4zm.4-1.1zm1-.5zm-1.7-1.2zm-.9-.4zm1.2-1.5zm-.2-.5zm.3-.8zm.8 0zm.3-.9zm1 .9zm.5-1.1zm-1-1.5zm-.4-1zm-1.1 1zm-.8-1.1zm-1.1 .9zm1.1-2.4zm-.7-.7zm-2.6 0zm-3.2 1.4zm-3-1zm-.9-.8zm-1.8 .4zm-.3-1.5zm-1.5-.8zm2.7-3.3zm1.1 .6zm.4-.3zm1.3 .5zm.1 1.2zm.2-4.1zm-7.2-3.5zm.8-4zm-4.3 14.9zm-.1 2.5zm-1.6 1.4zm-1.4-2.6zm3.4 5.3zm1.5-1.1zm1.4 1.5zm-.3 .6zm1.1 1.1zm1.5-.4zm.1 .3zm-.7-2.3zm1.2-.8zm3.2-.2zm.4 2.3zm-.3 2.1zm-.7-.2zm1.5 1.7zm1.9-1.8zm.6-.3zm.8 .3zm.9 .1zm1-.2zm0 .7zm-.3 .5zm-.4 1.1zm.6 .8zm-.6 .3zm-1 0zm-3.6 2.3zm-2.8-.2zm-.7-1.2zm-.1-.7zm-2.9-.1zm-.3 0zm.3 .4zm-1.1 .4zm0 1zm-.8 .9zm-.7-1.6zm-1-2.9zm-2.9 1.2zm-.9 1.9zm-.2 1zm.9 1.4zm1.8 1.5zm-1.6 1zm-.3 3.4zm-1.6 2.4zm-1.9-1.6zm-1.1-1.7zm-.6-2.2zm1.7-.8zm-2.7-1.7zm-.4 .9zm-.8 .7zm-.9 1.7zm-1.3 1.1zm-2 1.5zm-.9 4.2zm.5 .8zm1.5-.5zm1.3-.8zm1.4 2.8zm-3 0zm0 1.4zm-2.2-1zm-.7-1zm-1.1-.4zm.1-.9zm-1.1 .7zm-3.5 1.3zm-1.3-.8zm-1.1 .5zm.2 1.6zm1-.3zm1.1 .7zm1.2 3.1zm3.3 .8zm.2-.1zm1.1 .8zm.5 1.2zm-.6 2.3zm.5 2.6zm.4 1.3zm.3 .6zm-.9 1.3zm-.8 .4zm-.1-.5zm-.3-1zm0-.8zm-.2-1.2zm-1 0zm-1.2-1.1zm.3-.3zm-.8-1.3zm-.1 0zm-1.1-1.1zm.2-.5zm-1.1 .3zm-.5 0zm.7 .9zm-.2 1.1zm-.3 .5zm-.8-.1zm-.4 .2zm-2.6 1.2zm-.8 1.3zm1.4 1zm1.6 .8zm1.3 .2zm-1.1 1.4zm1.5 .8zm.6 1.4zm1 1.7zm-2 .4zm-1 1.6zm0 .3zm-1.3-.9zm.4-.8zm-.7 1.8zm-.4 1.1zm-.9 3.3zm0 .3zm-.5 .9zm1.3 .3zm.8-.7zm1 1.9zm.6 .5zm.8 .1zm.3 .1zm.6 1zm1.4 .6zm2-.9zm.1-1.1zm.4-.6zm-.2-1.4zm.2-.3zm-1.5-.9zm-2.3-.8zm0-.8zm-.2-2.5zm4.5 1.3zm1-.7zm.2-.5zm0-.8zm.3-.1zm.2 0zm-.4-1.1zm-.8-.2zm0-1zm-.2-1.7zm-1.6-1zm-.2 .2zm1.6-1.2zm-1.4-.9zm-.9-.2zm1.3-.8zm4.6 1.7zm1.8 .5zm.4 .1zm0 1.1zm-.5 .1zm-.1 .1zm0 .7zm.5 .2zm-.2 1.4zm.4 .9zm-.9 1.4zm-.6 .5zm-.9-.6zm-1.3 1.1zm-.6 .4zm1.8 1.5zm1.6 1zm1.5 1zm.3-.1zm.6 .8zm-.1 .8zm-.1 .1zm-1.2-.6zm-.7 .1zm.7 1.4zm-2.9 .2zm-2.2 1.8zm-.2-.2zm-1 .8zm1.9 .2zm-3.3 2.8zm-.7-.1zm-1.9 1.1zm-1-.3zm.1 1zm.9 .5zm-2 .3zm-1.6 1.3zm-1.4-1.4zm-.9 1.2zm0 .4zm-1.2-2.5zm.5-.4zm-.3-.6zm.4-.2zm.6 .4zm.1-.2zm1.1 0zm.7-.4zm1.7-1.2zm-1.9-.9zm-1.3 .5zm-1.3 .5zm-.2 .4zm-.5 .2zm-.2 1.6zm-1.5-2zm-1 .9zm-.1 .4zm-1.4-1.2zm.1-1.2zm.7-.5zm0-.7zm-.6-.3zm1.3 0zm.3-.4zm0-1.2zm.6-.3zm.9 .2zm-.3 1.2zm.3 .4zm2.6 .5zm.9-.5zm1.7-.1zm.3-.7zm3-1.8zm-7.8-1.5zm-.3 .8zm-2.3-.5zm-.2 .5zm-1 .5zm.4 1zm.2 .2zm-2.7-.9zm-2-.9zm-.8-1zm.9-1.1zm.4 .2zm.2 .1zm1.1 .3zm-.7-1.6zm-.1-.8zm1.5 .1zm0-1.5zm.4-.8zm.7-.9zm.5 .2zm1.9-2.1zm-2.8-1.3zm-1.8 1zm-.5 1.1zm-2 0zm-1.2 .1zm-.5 .6zm1 .8zm0 .4zm.3 .8zm.8 .1zm.2 .2zm-.1-1.3zm-.1-.5zm-3 1.5zm-.4 .4zm0-.9zm-1.1 .5zm-.5 .2zm-.2 .5zm-2-2.5zm-1.9-1.2zm-.4 2.5zm1.3 4.3zm-2.1 .5zm-.9-.3zm-.6 1zm-.8 .4zm-.4-.2zm-1.8 1.1zm1.9 1.2zm.1 1zm-1.8 .6zm-1.5-.6zm-.5 1.3zm-.7-.3zm-1-.5zm-1.6 .8zm-1.1 .7zm.4 1.1zm2.6-.7zm4.8 0zm1.8-1zm.3 1.3zm.5 .3zm-.1 .2zm.4 .4zm.4-.3zm.2 0zm-.3 1.2zm-1.5 .1zm-1.2 .2zm-.6-.3zm.3 2.5zm-1.3 .9zm-.6-.5zm-.6-.4zm1.8 1.7zm.3 1.8zm.2 .4zm.2 .1zm-1.7 1.4zm1.3 1.4zm-1.3 1.2zm0 .6zm.6 1.8zm.1 .3zm.6-.3zm1 .6zm-.5 1.2zm-.1 0zm.2 .8zm1 .3zm.2 0zm.2 .5zm1.4-.9zm.9 .4zm1.7 .6zm-.4 .9zm.5-3.7zm-.5-1zm0 0zm-.5-.5zm-.2-.2zm-.3 .7zm-1.7 0zm-.2 2.1zm-3.5 1.7zm-.8-2.2zm-.2 4.5zm0 1.1zm1.9 .3zm-4.2 .1zm-.5 2.3zm-.4 .1zm-1.9 9.4zm4.9 .5zm1.4-.7zm2.5 1.5zm1.6 3.9zm1.1 .5zm-2.6 1.4zm-.4 .2zm-.2-.6zm-1.5-.2zm-1.1-.4zm-.7 .6zm3.2 2.2zm.5 .8zm1.5 0zm.2-.4zm1.4 .7zm3.9 0zm3.1 3.9zm-1.6 1.3zm4.4 2.5zm.9 .6zm18.9-14.7zm2.7-7.3zm-.8-.4zm-.3-1.7zm-1.1-.4zm-.2-1.2zm.2-.2zm-1.8-2.6zm-.3-2.1zm2-1.2zm.7-.8zm.5 .2zm-.1 .8zm.6 .2zm-.5 1.6zm2.8 .4zm2.1-.2zm1 .1zm-.1 .4zm1.8-3.2zm-.6-1.7zm-.3-.6zm.6-.6zm1.6-.3zm.3-.5zm.2-.9zm.7-.1zm-.1-1.3zm-.1-.3zm-2.1 .8zm-1.4 .4zm0 .3zm-1.1 .2zm-.7 .1zm-.1-.2zm-.2 .1zm-.3 .5zm.4 .4zm-.4 .5zm-1.7 1.4zm1.1 .9zm-2.2-2zm-.1-.8zm-.8 1.3zm-1.1-1.6zm-1 .5zm-.4 .1zm-.3 .1zm0 .7zm.4-.1zm.3 .4zm-1.5 .1zm-.6 .4zm-.3 .1zm-.2-1.3zm-1.1-.6zm.6-1zm0-.2zm.4-.4zm-.1-.4zm-.1-.6zm.9 1zm.6-.3zm.8 .8zm1.8-1zm1.2-.6zm.3 .6zm.7 .3zm.7 .7zm1.8-.9zm1.9-3zm-.6-.9zm-.6-.9zm2.1 .2zm-1-2.7zm-.1-.2zm0-.9zm-.8-.6zm-1.1-.6zm-.1 1.8zm-1 .1zm.5 .9zm1.4-.2zm5.1-1.9zm.5 .4zm.8-.9zm.8-.7zm.3-.1zm.3 1.1zm-.5 1.1zm-2.6-2.1zm-.9-1.3zm.7-.5zm-.6-.8zm.8-1.6zm1.8-.4zm.5 .6zm1-.4zm.4-.2zm.7-.6zm.5 .9zm.7-.4zm-2.1-3.3zm-3 .4zm-.5-.3zm-.6 .6zm2.3-4.7zm-2.4-1.3zm1-1.1zm-.1-.4zm-2.9 2.5zm-1.7-.5zm-.7-1.5zm.1-.5zm1.7-3.4zm-.2-.9zm.3-.8zm.7 .1zm-1.9-1.9zm-.9-1.7zm.3-1.2zm.2-.1zm1.2-.1zm.8-.7zm.5-1zm-.4-.2zm1.2 0zm1.7-.8zm.2-.1zm1.7-2.8zm.4-1zm-1.1-.4zm1.7-1.1zm-6 2.8zm1.4 5.4zm-1.1 .5zm-.1 1.1zm2.2 .1zm0-.3zm3.4-.3zm1.4-.4zm1.7 .1zm.8 .6zm1-.3zm.9 .9zm.9 1zm.6 .5zm1.9 .9zm1.8 .5zm1-.9zm1.2-.3zm-.1-.4zm.8 1.7zm.6 .5zm.4 1.2zm.9 1.4zm1.1 .2zm-.8 1.3zm-.6 1zm-.3-.1zm.2 1zm-.1 .2zm0 .5zm0 .5zm.9-.4zm.6 0zm.8-.2zm0-.3zm-.2-.2zm.9 0zm.8 1.7zm.8 .2zm0 .2zm.8 .5zm1.2 .6zm.1 .4zm.2-.7zm1 .7zm.4-.7zm.8-.5zm.6-1.4zm.9-.1zm1 1.5zm.4 .7zm-2.2 3.1zm-1 3.3zm.1 .4zm-1.5-.5zm-2-1.2zm0-.3zm-.5 .3zm.1 .2zm-.7 0zm.3-.7zm-.3-.3zm.5-.1zm.7-.2zm.2 .3zm-.2-.9zm-.4-.2zm-.3-1zm-.6-.7zm.2-.3zm-.5 2.2zm-.1 .6zm-1.5 1zm-.1 1.4zm.8-.1zm-.3 1zm.3 .3zm0 .5zm-1.1-.1zm-1.3-.6zm0-.2zm.2-.5zm.4-.6zm-1.3 .4zm-.4-.9zm-.1-.1zm-.5-1.1zm1.5-.4zm.4-1.2zm-.5-.3zm-2.3-.4zm0 .9zm.8-2.8zm3.2-.4zm.3-.1zm5.8-1.9zm-.5-1.3zm-2-2zm-.9-1.1zm-.4-.5zm.5-1.2zm.2-.2zm-.2-1zm1.1 0zm.1 .1zm.4-.4zm-.6-.4zm-1.5-1zm1.3-1.2zm.4 .4zm2.2 .8zm1.7 1.1zm.2 .9zm.1 .2zm-1 1.1zm.7 1.9zm1.6 .2zm-.2 .9zm-.1 .6zm1.1-2.1zm1 1zm.2-2.1zm-3.3-4.4zm-1.7-2.1zm2-.7zm2.8-1.1zm.9 .5zm-.2 .5zm2.5-1.4zm5.6 9zm.1 4.7zm-.3 .9zm-1.3-.1zm-.7 .6zm-1.1 1.5zm.1 1.2zm1.2 2zm1.4 .1zm.7-.6zm2.3-3.7zm-6.5-.5zm-1 1.2zm-.9-.6zm.2-.5zm1-1.5zm.3-.6zm-2.9 8.8zm.1 .6zm-.1 .7zm-.5 .7zm-.7 .2zm1.5 1.6zm-.1 1.5zm.8 .2zm.2 .6zm.7 .3zm1 .4zm-.1 .3zm1.3-.2zm1.6-.4zm-.5 1.8zm-4.9-1.1zm-1.3 .2zm.5 1zm-3.1 .6zm-.2 .9zm.3 .7zm-2.5-2.7zm1.2-3.2zm-.7-.9zm-.2 .1zm-.2 .4zm-1.7-.6zm-2.2 .6zm-1.8-.7zm-.6 1.2zm.1 .6zm-.1 .2zm-.1 .1zm-.7 .4zm-1-1zm-.7 0zm-.6-.5zm-.2 .6zm-.4 .1zm-.2 .5zm-1.4-1.1zm-.9 .5zm-2 .2zm-.9 .5zm-.6 .5zm-.4 .5zm.6 .9zm.8 .6zm.4-.7zm1.2-.1zm.1 .3zm-.6 1.1zm1.5 0zm-1.1 2.1zm-.6-.4zm-1.7-.2zm-.4 .5zm-.8-.1zm.6-.9zm.5-1.1zm-3.6 1.3zm-3.4-.6zm0 1.2zm-1 7zm-.3 0zm-.5 1.2zm1.1 1.1zm.7 1.3zm.6 .9zm1.5-.3zm0-3.6zm-6.4-1.1zm12.9-1.8zm.5 0zm4-3.9zm.8 0zm.2 .3zm.3-.8zm.2-.4zm.4-.4zm.3 .2zm.9-1.5zm.5 0zm-.2-.4zm.2-.4zm.6 .7zm.5 .7zm-2.1-1zm-1.7-.5zm0-.6zm3.1-.6zm-2.3-3.6zm-2-.1zm-.8 0zm-.1 .1zm0-1.1zm.4-.1zm.5 .3zm5.4-1.5zm.4 .1zm.2-.7zm-9.6-6.7zm.3-3.3zm2.2-1.2zm-.6-2.5zm.3-1.2zm-2.5-3.7zm-1.7-1.5zm-2.4-.9zm-.8-.2zm-1.6-.7zm-.9 .5zm-2.9 3.9zm1.2 1.1zm-.5 .8zm1.7 3.5zm0 .1zm-.3 .4zm2.9-.6zm6.8-8.7zm3.2-.4zm.5-1.8zm1.9 5.3zm.2 .9zm5.1 2.3zm9.4 15.2zm4.9 2.4zm-21.6 19.3zm-2.5-.9zm-.9 .6zm11.1 12.3zm-.5 1.4zm-15.2-33.5zm-7.6 .1zm-.9-.5zm-15.9 9.4zm-.1 .8zm.4 0zm-1.2 2.3zm.2 3.2zm-1.3 .1zm-.5 .1zm.7 1.1zm-.6 .2zm.2 1.9zm-.2 .2zm1.5 .5zm.4 1.6zm-.3 .3zm-.6 .3zm-.5-.4zm-2.8 1.7zm-3.2 1zm-1 .5zm.9-2.6zm-.8-.4zm.8-.9zm2.3-1.8zm1.7-.2zm.1-3.2zm-4.3-.3zm-1.2-.5zm-.6-2.7zm-.4-2.6zm-1.2 .5zm-1.3-.4zm-.4 .6zm1.4-1.8zm1.1-.6zm-1.5-2.2zm-2.8 7.2zm.2 .1zm-2.3-.7zm-.1 1.4zm-.9-.3zm-.5 .7zm.2 .3zm.1 .5zm-.7-.9zm-.6 .6zm.1-1.5zm-.7-.3zm.3-.4zm-2.4-.6zm-.1 1.3zm-2.1-1.7zm-.5-1zm-.5-.2zm-.7-.4zm-.9-.8zm-.3 1.1zm-.9-.5zm.4-2.4zm-.1-.2zm1.4 .6zm.5-.3zm1.2 1.1zm1.1 .3zm0 .9zm-.1 .3zm0 .1zm.1-2.2zm-.3-.3zm-.3-.4zm.2-1.6zm-1-1.4zm-.1-1.2zm0-.6zm.9-.3zm-4.5 .3zm2.4-6.8zm.9-1.8zm.1-.8zm-7.3-4zm-.6-1.7zm-.5-.9zm-1-1.2zm-.6 .5zm-.4 0zm-1.1-.1zm.2 1.1zm-.7 1.5zm-.1 .2zm.9 1.1zm-.7 1zm.8 .9zm1.4 .2zm-.4 1.4zm-7.8 1.3zm-1-.1zm-1.5-.3zm-.1-1.1zm-.6-.9zm-1.2 0zm-.7-.1zm.4 1zm-.7 .6zm-1.7 2.3zm-.5-.2zm-.3 .8zm-.7 .2zm-.2 .4zm.3 .3zm-.7-1.1zm-.1-2.1zm.3-.4zm.1-.4zm-.3-.2zm-.3 .5zm-.7-2.2zm-.9 0zm-.4 .7zm-.9-1.3zm.1-.7zm1.7-2.6zm.3-1.4zm.9 .3zm.6-.2zm.5 .8zm.8 1zm-1.8 .8zm2 2.4zm3-.8zm-.6-3zm.1-1.2zm-2.1-1zm-.4 .1zm0-.7zm.5-3.6zm1.4-2.9zm.2 0zm-1-1.6zm-1.4 1.3zm1.5-3.3zm-9.2-.4zm-.7 2.2zm-1.2 .6zm-1.9 1.5zm-2.9-.3zm-1.2 1.5zm1.4 1zm.5-.1zm3.2 .8zm1.6 1.2zm.4 1.5zm-1.2 .4zm-.8 2.1zm2.4-.4zm2.4-.3zm-.2-1.1zm-1.1-5.6zm-5.2 4.6zm-2.3 .4zm-1.9-6.8zm3.3-2.6zm17.8-11.6zm1.4-.4zm5.2-5.3zm3.7 3.2zm1.2 1zm.3 .6zm3.1 .2zm1.7 .6zm.4 .2zm-.2-.9zm-.5-1.4zm1.3-2.8zm1-1.3zm4.7 .6zm0 1.7zm1.5 1zm2.1 1.7zm-.1 4.3zm1.2 1.2zm-.5 .5zm.1 1.4zm1.1-.2zm.9-1.2zm.5-.1zm.8-.8zm.4 0zm-2.7-.3zm-2.5 2.5zm1.5 2zm2.4 2.7zm1.9-1zm1.5-.4zm.9-.1zm.2-1.2zm1.3 .4zm.7 .8zm-.2 .7zm1.7-.4zm.7 .8zm.8 .7zm1.3-1.8zm-.1-.3zm-.3-.5zm-1.8-.3zm3.9-.3zm-1.2-2.9zm-5.4 7.2zm-.8 .8zm1.2 .8zm1 .3zm1 2.1zm.6 2.6zm-3.7-2.9zm-1.9-.8zm-.7-.1zm.8-.8zm-.4-1.5zm-.1-1.5zm-.8-3zm-.2-.3zm-.7 6.2zm-1.2-.2zm-.9 .1zm-1.2 .9zm-.9 1.1zm1 1.4zm1.9-.4zm.6 .8zm.5-.5zm.5-1.5zm-.9-.6zm-5-2zm-.9 .5zm.1 2zm-1.4 0zm0-.2zm-.3 1zm-.6 0zm.3 2zm-1.1 1.2zm-1.5-1.7zm5.4-.3zm.1 1.1zm-1.8-9zm-2.6-4.2zm.1-.3zm-.6-1.4zm-1 .2zm-.4-2.5zm.8-.4zm1.5-.9zm12.1-1.5zm3.3-12.9zm9.8 2.9zm8.7-11.6zm-11.1-9.6zm-4.2-.7zm-.1 .9zm-3-3.1zm1.7-1.8zm.5-9.5zm.8-1.8zm-.4-.6zm2.1 .6zm0-2.9zm1-1.6zm.5-.1zm1.9 .9zm.5 .9zm-.6 .2zm2.3-1.7zm3.7-3.9zm3.2 2.2zm-.1 1.6zm1.3-3.1zm2-1.1zm3.6 .2zm-4.9-4.1zm-16.1-8.2zm-2.2-1.4zm-1-2.2zm-1.9 .9zm-2.5-.4zm-.4-.8zm4.2 4.4zm.3 3.3zm-3.9 1.7zm-2.8-.1zm3.1 11.5zm2.1 .3zm2.1-.6zm-1.4 4.6zm-1.1 1.1zm-6.1 .2zm-1.9 1zm-.7 .8zm-1.2 1.3zm.8 .6zm2.6 4.3zm-5.7 2.1zm-4.3 4.7zm-8.1-1.4zm-.6-1.8zm-3-.4zm-.5 .9zm3.4 3.4zm.7 3.5zm.7 0zm.9 1.5zm0 1.7zm.7 .9zm.4 12.4zm.9 1zm6.4-2.7zm5.2 .3zm-24.1 2.5zm-6.3 2.2zm-.7 .8zm-6.1-5zm-1-1.3zm-4.2-9.5zm-3-4.1zm3.1-2.3zm1.1 .2zm-5.4-2zm-.7-1.2zm-2.2-3.1zm-3.1 .9zm-.8-2.1zm5.1-1.9zm2.4-1.9zm.7 .4zm1.2 .7zm-.8 1.3zm-.6 2.2zm36.4-4.8zm0-1.6zm12.5-6.9zm-3.7-27zm1.2-2.3zm-10.9 3.7zm-8-1.4zm-.5 86.7zm1.3 4.2zm-.9 4.5zm-6.7 5.7zm-.3 7.8zm-.3 .4zm.7 2.4zm0 1.8zm-.6 1.2zm-2.4-2.7zm5.5-.8zm-.5-2.4zm6.9 12.7zm13.8-1.8zm.6 0zm.5 .1zm0 1.9zm1.9 .3zm3.4 6zm-.4 .6zm-.5 3.1zm-.5 0zm1.6 .5zm3.6-1.2zm-.5-1.5zm2.2 5zm-7.6 2.7zm-5-2.5zm.4-1.2zm1.7-3.1zm15.1-6.2zm.6-1zm1-1zm3.7 16.2zm-1.1 1.7zm2 .6zm-18.2-29.9zm.7-1.2zm4.2-5zm1.8-2.1zm1.1-1.5zm-.2-.5zm16.1-5.2zm1.6 0zm11.6-19.5zm6.9-8.1zm.2-.9zm-.7-1zm.5-1.5zm0-.3zm-.6-1zm-2 2.5zm3.9 .6zm.9-.6zm2.5 2.6zm.8-.4zm8.2-9.2zm.1-.2zm1.6-3.6zm4.3-.2zm.2-.5zm-.6-2.5zm4-2.9zm-.7-.8zm.2-.5zm-1.7-1.1zm1.5-1.2zm.7-1zm1.8-.1zm-1.7-1.7zm2.4-1.4zm.3-.8zm.2 0zm-1.4-.4zm-.1-1.3zm1.3-.2zm2.1 1.2zm1.2-1.1zm.1-1.6zm0-.9zm-1.6-.4zm2.3-2.4zm3.1-1.4zm1.4 1.6zm0 .3zm-1.2 2.1zm-.4 1zm-.3 .7zm-1.5 1.4zm-7-3.5zm-1.3 1.9zm-1-.5zm-1.2 6.8zm-1.8 1.9zm6.1 1.3zm.4 .5zm.1 1.7zm-1.1 .2zm3.3-.5zm-.1-1.5zm-16.7 8.1zm20 17zm1.2 .5zm28.7 35.9zm.8 .3zm0-.8zm1.5-.9zm.3 .2zm.7-.7zm.6 1zm.4-.3zm.3 .4zm1 .7zm-2.2-.4zm-1 1.2zm-157.3 18.2z"/>
<path class="ps" stroke="#380a5d" stroke-width="1.0" d="M303.1 500.4zm3.5 .9zm-.4 1.8zm-1 1.4zm3-.9zm.3-.7zm.9-.5zm.4 .3zm.5 .2zm1.2 .4zm.9 .1zm1.1 0zm-.1 .7zm-.7 .8zm-.1 .3zm-.8 1.1zm-.7-.3zm-.8-.4zm.7-1zm-.4-.2zm0-.2zm2.1-2zm-.2-.2zm1.3 0zm1.6-.1zm.7-1.9zm-2.7 .2zm-.5-.4zm0-.3zm.1-.3zm-.4-.5zm-.3 1.2zm-.7-.4zm-1.6 1.6zm-.6-.2zm-1.1-5.6zm1.9-2zm.6-1.2zm.6 .5zm.3-1.7zm1.2-1.6zm1.5-.6zm.4 1.6zm-.9 .9zm.8 1.1zm1.3 1.7zm1.8-.3zm.8 0zm1.7 .1zm.5-.3zm1.3 .5zm.6 .5zm1.1 1.8zm.6 .5zm.7-.4zm1.1-.3zm0-.2zm.9 .8zm-.6 .7zm.4 .4zm1.3 .4zm.3-.1zm.3-.5zm.4 1.5zm.4 0zm.4 .7zm-.6 .2zm1.4-.3zm.5-.2zm.6 .5zm1.6-1.1zm-.2-.7zm-1.9-.6zm-1-.5zm.2-.6zm.6-.5zm.5-.2zm-1.2-.6zm.4-.5zm-.8-.6zm-1 .2zm-.4-.5zm-.1 0zm-.8-.6zm-.6 .5zm-1-.1zm-.2 .7zm.8-2.9zm-.3-1.9zm-.7-2.1zm.5-.8zm-1.5-1.6zm-.9 .1zm-.5 .3zm-.6 0zm.4-.6zm.1 2.1zm-.7 3zm-1.7 .9zm-.4-1zm-1.2-.2zm.3-.7zm-4.4-2.3zm6-2.5zm1-5.9zm-.1-1.6zm-1.6 .9zm-.9-3.3zm-3.8-9.2zm4.6-3.1zm11-1.7zm3.3-.4zm-2.6-5.7zm6 11.2zm5 11.5zm2.7 1.2zm0 .8zm-1.3 1.1zm.8 3.1zm-1.8 1zm-1.3-1.8zm-2.4 1.4zm-.7-1zm-1.3-.5zm.6-.9zm-2.1 1.1zm-2.5 1zm-.4-.1zm-1 .6zm2.5 1zm.3 .5zm.2 1.7zm.4 1.2zm2.1 .5zm2-.5zm.7 .1zm-.4 1.6zm.6 .1zm.7 .5zm1 0zm1.1-2.2zm2.6 .9zm.3 .8zm1.1 .9zm-.9 .8zm-.7 2.3zm-1.1 1.6zm-1.2-1zm-1.7 .2zm-3-1.1zm-.9-.6zm-.2 .5zm-1-.1zm1.4-1.4zm1-.8zm-2.7-.2zm-1.7 .7zm-2.1 2.1zm-1.7-.4zm-1.5-1.9zm0 4zm-.9 .1zm-3.1 3.2zm.7 .9zm-.5 3.6zm-2.1 .8zm-.3 .3zm.6 .4zm-1.2-2.3zm-1.9 0zm-2-.1zm-.1-1.4zm1-.2zm.9-.6zm-.5-.7zm-.6-3.9zm4 1.4zm4.5 5.9zm.1 .3zm.4-.4zm.9 .3zm.6 .3zm.1 .8zm.5 .3zm-.9 .7zm-1.6-.3zm-.3 1.3zm-.2 0zm-1.3 2.6zm2 .3zm.4 .2zm2 1.8zm2.3 .7zm.6 .3zm-1 .7zm-2 1.8zm-4.5-.7zm0-.3zm-1 .3zm-1 0zm-2.3-2.1zm1-4.3zm-3.5-1.5zm-2.9 .5zm-1 .5zm1.6-3.2zm-1.8-6.8zm-10-6.3zm3.8 20.8zm22.1-5.1zm.7 1.1zm0 .4zm.6 1.1zm.8 .4zm.7 .4zm0-1.6zm-.5-1.9zm0-.9zm.5-.2zm.3-1.8zm-2.1-.3zm-1.8-1.6zm3.8-1.6zm2.8 .7zm2.2-.2zm1-.4zm-.5-.8zm-.3-1.5zm.5-.1zm1.3 .4zm2.8 .7zm.1-.3zm.5 .4zm.4 .4zm.6-.4zm.7 0zm0 .4zm.7 1.9zm.7 .1zm0 .6zm-.2 1.5zm-1.9 1zm-.3-.5zm-1.2-1.2zm0-.6zm-1.9 1.1zm-2-.6zm.2-.8zm.3-.4zm-1.1 2.8zm-.5 1.6zm-1.5 1.5zm.1 .2zm-.3-.4zm-.9 1.2zm.3 1.2zm.8-.5zm.5 1.4zm-.4 .6zm-.1 1.7zm.5 2.6zm2-.2zm1.2 .3zm.5-1.9zm-.1-.9zm.6-.5zm.1-.5zm1.7 1.3zm.3 .2zm-.5 .6zm.1 .4zm1.3 .8zm.3 1.1zm-1.5 .5zm.3 3.3zm3-.5zm.3-1.3zm.7-1.4zm-.4-1.6zm.4-.5zm.9 .6zm1.1-.8zm-1.7-1.5zm.1-.5zm-.8 .4zm-.8 .1zm-.2 .8zm-.1-2.4zm-.3-.9zm1.2-1.5zm-.4-1zm2.9-1.2zm-.2-.4zm.4-1.4zm.2-1.6zm-1.4-1.4zm.3-2zm-.9-1.8zm1.5-.6zm.3-.9zm.1 0zm-.7-.7zm-.6 .6zm.8-2.1zm.1-1.3zm.1-.1zm-1.3 .4zm1.5-2zm-1.4-1.4zm-.8 0zm.2-1.3zm0-.9zm1.3-1.2zm.1-.1zm2.1 .3zm2.4 1zm.3 1.1zm.5 .8zm-.7 1.5zm.7 .2zm1.5 .9zm1 0zm.3 .1zm-.4 .4zm.6 1.2zm1-1.5zm.2-.8zm.3-.7zm-.2-.3zm-.7 .5zm2.1-.7zm1.3-1.1zm0-.5zm.7 1.6zm1.9 3.3zm.8-.2zm.4 1.1zm.6 1.2zm0 .5zm-.9-.3zm-1.8 1.7zm-1.8-1.5zm-1 1zm-1.2-.4zm-.6 1.2zm.5 .2zm.5 .4zm1.1 0zm-.3 1.1zm-1.5 .1zm-.3 1zm-1.6 .5zm-.6 .2zm-.5-.3zm-.4 .5zm-.6 .9zm1.1 .4zm.6-.5zm-1.2-2.2zm-1.3 .1zm-1.5 .7zm-.5-1.9zm-.3-2.1zm1.4-1.8zm.8 .4zm0 .2zm.8-2.3zm-2.2-.1zm-1.1 .6zm-.1-1.4zm4.6-5.7zm-.4-.9zm-.6-1.4zm1.5-1.5zm1.5-1.3zm-.5-.7zm.5-1.2zm-3.2-3.9zm.8-2.6zm1.6-.4zm.6 .1zm-.1 .8zm2.1 .5zm1.4-.7zm-.5-2.1zm-1.1-.1zm-1.2-1.7zm-.8 .7zm-2.3-1.5zm.5-4.8zm-.4-1.6zm.3-.6zm2.2 2.3zm4.7 1.5zm-.2 1.8zm5.8 .4zm1.2 3.2zm-.5 .9zm1.7-1.5zm-.1 3.5zm-.8 2.8zm.6 3.8zm.8 0zm2.1 .1zm.5 1zm1.1-1.2zm-.4-.6zm-.1-.6zm-.9 0zm2.2-1.4zm1.1-.7zm.8 .4zm-.1 1zm-1.2 .7zm2.5-1.2zm1.4 .4zm.1-.1zm.1-2.6zm-1.4 .1zm-1.1 0zm-1.1-.2zm-.5 .2zm-1.5 .6zm-1.1-2.2zm-.1-.8zm1 .3zm.2-.5zm1.2-.1zm1.9-2zm1.4 .7zm1.2 .9zm.9 .5zm-1.2 .9zm-1.1 0zm0-.6zm3.8 .4zm1.4 1.2zm1.2-.5zm1.5 .9zm1 0zm.4 .3zm.1 .3zm.6 .5zm.7-.6zm-2 .5zm-2.1 .1zm2 2.6zm-.3 1.3zm.6 .3zm.9-.5zm.2-.1zm.5-.5zm2.1 .6zm1.7-.7zm.1 1.9zm1.6 1.3zm.6-.6zm.2-.4zm.9 .1zm0 .7zm-.8 1.1zm-1.1 .2zm0 .2zm-.2 1.6zm.5 1.8zm-.8 1.2zm-1.4-1.9zm-.2-2.9zm-4.3 .7zm.1 .6zm1.6 2.4zm-.7 .6zm-.6 .8zm-1.4-.7zm-1.3 3.2zm-.5 .8zm-.8-.3zm-.6-.7zm-1.3-1.6zm.6-.6zm-.6-1.1zm-3.4-.1zm-.4 1.5zm-.6 2.8zm.6 1.4zm.3 1.2zm-.5 1.8zm-1.2 1.7zm-.7 0zm-.6-.1zm-.4 1.4zm-.5-.2zm-.2 .1zm-.4 .2zm-.7-1.2zm.4-.2zm-1.1 0zm-.7-.5zm1-1.2zm1 .2zm-.3-1.4zm-.2-.3zm.8-.1zm-.5-.8zm0-.4zm-.5-.6zm-.6-1.7zm.7-.8zm-1.6-.6zm-.6 1.2zm-1.6-.5zm-1.1 0zm-.6-.5zm-.9 0zm.1-.8zm-.7-.1zm.7-1.3zm.8 .4zm-.8-2.1zm.5-1.1zm-.1-.4zm-1.4-.4zm-1.6 1.9zm-.4 1zm-1.6-3.6zm.9-.9zm0-1.1zm.7-.8zm-.2-1.4zm-1.4-.7zm4.7 2.5zm6 4zm.4 0zm-2.3 8.5zm-1.2 1.3zm.2 .6zm.7 .6zm-1.9 .1zm-.9-.2zm-1.3 .2zm-.2-.3zm.7-2.6zm-.2-2.1zm-1.1-.5zm-.2 1zm2.8 6.4zm.2 0zm0 .8zm1-.7zm.9 .9zm-.3 .4zm1.2 .5zm.6-.9zm-1.6 2.1zm-2.2-1.1zm-.4 .4zm-.6 .6zm-1 1zm-.1-.1zm-.6 .8zm1.2 1.5zm.1 0zm.4 1.8zm.1 .5zm-.2 1.3zm-1.6-.6zm.1-.3zm-.6-1.1zm-1.5-.9zm-.6-.2zm.3-.6zm-.4-.4zm-.8 .7zm-1 .9zm-.6 1.5zm-.5 1.8zm1.1 1.3zm1.4 .8zm.3-.5zm-.3-1.4zm.6-1.3zm1.5 .8zm1 .6zm-1.1 1.5zm1.7 1.4zm-.6 .6zm1 .5zm1.3-2.7zm1.9 1.1zm1.1-.5zm-.7-.8zm1.1-.4zm.6-.5zm0-.9zm1.3-.4zm.9 0zm2.1 .1zm-.1 1.4zm1.2-.2zm.7 .1zm2.7-.1zm.7-.9zm1.9 1zm-.2 1.2zm.5 .2zm-1.4 0zm-.5 .5zm.7 2.3zm-.7 .7zm-.8 .3zm-.9-1.4zm-.8 .3zm-.1-1.5zm-1.4 2.7zm-1.6-.5zm0-.7zm-.6-1.1zm-.6-.4zm-.5 .8zm-.2 0zm-.8 .2zm-.6 .2zm-1.1-.5zm1.6 1.7zm.7 .7zm.6-1.5zm1.3 2zm-.1 .1zm.1 .7zm3 .8zm.3-.8zm2.6 .8zm.3-.5zm.1-.1zm-.5 2zm-.2 1zm-1.2 0zm.8 2.4zm-1.6 .4zm-2.3 2.2zm-1.3-2.5zm-.8-1zm.3-.6zm.5-.3zm.9-.4zm-4.8-1.2zm-1.9-.2zm.2 1.8zm-.1 1.1zm-1.5-1zm-.3-.2zm-2.1-.4zm-2.7 .4zm.1 2.1zm-2-5.4zm-1 .4zm1-1.5zm-1.7-1.7zm-.1-.4zm-.3-.9zm-1.3 1.7zm-.8-1.2zm-.2 2.3zm.8 1.7zm.9 .8zm-1.4 .6zm-.1 .3zm-.2-.2zm-2.4-2.1zm.1-.6zm-.9-.5zm-.4 .6zm-.6-.8zm.4-.6zm0-.2zm1.3-1.3zm.1-.6zm-.7 .2zm0-1.3zm.8-.7zm-1.5-1.3zm1.1-1zm1.3-1zm2 .8zm-.8-3.3zm2.4-.4zm1.6-1.1zm.7-.7zm.9-.3zm.5-.4zm-.7-.4zm2.4-.7zm.1-.8zm-.3-1zm-.8 .2zm5.7 5zm1.7 .3zm.7 1zm.4-2.6zm1.7-.6zm1.2-1.4zm1.7 1.8zm.3-.2zm1.2-.8zm.5-.5zm.5 .4zm.2-.1zm-.4 .6zm.9 .6zm-.4 1zm-1.5 1zm-1.2-.3zm0-.4zm-1.2-.2zm-.5 .7zm.5 1.1zm4.4-.1zm1.5-2.2zm-.5-1zm.4-.7zm-1-1.1zm.4-1zm.8-1.4zm1 0zm.1 .6zm1.3 1.1zm.4-.5zm.8-1.9zm.5-.2zm1.5-.9zm1 1.9zm.5 .3zm.7 .4zm.6 .2zm-.6 1.2zm-.3 .8zm-.3 .4zm-.2 .7zm-1.1 .1zm-.3-.8zm-.2 2zm1.7 1.7zm1.1 .6zm.1 1.2zm.7 .4zm2 .6zm1-.7zm.9-.3zm.7 .7zm-.1 .3zm-.4 .2zm1.5 .5zm-1.7 1.4zm.1 .2zm-1.1 .4zm-.2 .2zm-.2-.8zm-1.8 .9zm-.5 .8zm.6 .2zm1.3 .5zm-.1 1.1zm-1 .2zm-1.1-.5zm2.6 1.3zm.9 .4zm.9 .6zm.9-.4zm-.1-.4zm.4 .9zm.3 .5zm.9 .9zm.1 .3zm.6-1.6zm1.2-.8zm-.2-.4zm-.2-.2zm-.8-.1zm1.7-1.4zm1 .3zm.5-1zm.2 2.7zm-.6 1zm-.3 .4zm0 .2zm0 .5zm-.2-1.3zm2.6-.2zm1-2.8zm.9-2.6zm-1.3-1.5zm-.7-.4zm-.3-.7zm.3-.5zm.6-.3zm1.4 1.1zm.9 0zm.5-.8zm1.2 .3zm-.6 1.8zm1.4 1.9zm-.4 1.3zm.6 1.5zm-.8 1.3zm.7 1.6zm-1.2 1zm0 .5zm-1.7 1.2zm-1.5 .4zm-.3 .3zm-.2-.1zm-.6-.1zm1.1 .6zm1 3.1zm-1.1 .9zm-.7 1.6zm.8 .3zm2.8-2.8zm1.1 .4zm.3 .2zm-.9-2.3zm3.7-2.5zm.5-1.6zm.1-.6zm-2-1.8zm.3-.6zm.2-2zm.4-.8zm1.9 1.3zm.7-.7zm1.6 .2zm-.9 1.3zm1.1 .7zm.6 .1zm.9 .5zm-.4 .6zm-.2 .1zm-.5 1.1zm.9 .2zm.2 .5zm2.4 1.3zm-1.4 3.2zm3.7-7zm.7 0zm.8-1.4zm-.5-.4zm1.4 .2zm.2 .5zm1.3-1.3zm-.9-1.5zm-.5-.6zm-.8 .5zm-2.2 1.2zm-1.4-1.2zm-.6-.7zm0-.9zm.2-.5zm1.2-.2zm.1 .2zm.9-.4zm-.3-.7zm-.2-1zm-.1-.9zm-.3-.4zm-.1 0zm-.2-.5zm0-.6zm.3 0zm.5-.4zm-1.3-.1zm-.1 0zm-.7 .5zm-.8-.9zm.1-.7zm1.5-.4zm-3.3 .1zm-1.2 1.4zm.8 1.1zm.7 .3zm-.1 1.3zm1.1 .5zm.3 .6zm.9 0zm.3-.4zm0-.1zm-1.1 2.5zm-.3 .4zm-.7 .3zm-.1-.1zm.2 2zm-3.7-2.1zm-.2-.5zm.6-.2zm.5-1.2zm.2-2.8zm.6 .1zm-1.7-.3zm-.4 .1zm-.3 .4zm-.2 .2zm-.5 .2zm.4-.8zm-.1-.2zm-.9-1zm-.7 .7zm-1.1 .8zm.3 1.7zm1 .6zm-.2 1.2zm-3.1-4.9zm-.1-1zm-.9 .5zm-.3 .1zm-.5 .6zm-2.6-.5zm-2.8 0zm-.1 .9zm.6 1.2zm-.6 .2zm0 .3zm-1.1 .4zm-.2-.2zm-1.6-.8zm.8-1.2zm-.4-2.2zm-1.8-2.5zm-1.1 .1zm-.4-1.3zm-.2-.5zm.4-1.1zm0-.1zm-.9 .1zm-1 .7zm-.1 .2zm-1.2-1.2zm-1.4 .3zm.3-1.8zm2-1.8zm1.2 1.1zm1.6 .2zm0 .7zm.3-1.4zm.4-.4zm-.3-.4zm-.6-.7zm-1.2-.4zm2.3-1.6zm.6 .3zm.6-1.2zm1.6-.7zm.6 1.2zm.4 .8zm.6-1zm-.3-.5zm.2-1.5zm1.3 1.2zm.7-.9zm1.9-.4zm.4 .5zm.3-.3zm1.4-1.6zm-.6-1.1zm-.9-.8zm-.4-.3zm-.7 1.8zm-.2 .3zm0 .1zm-.5-.2zm-3.2 0zm-1.8-2.8zm-1.1-.9zm-.5 .3zm-.1 0zm-.2 2.8zm.1 1.3zm1.6 4.5zm-.3 .7zm-.3 .9zm-.6 1.1zm-.1 .4zm.1 1.3zm.7 .6zm1.7 .6zm2.3 2.3zm1.8-1.1zm.2 2.1zm-.3 .6zm2.8-.3zm.2 .1zm.3-.5zm1 .5zm.6-1.4zm1.4 0zm-.1 1.6zm.9 .2zm1.4 .8zm-.2-2.2zm1.6-2zm.3-1.1zm.3-1.7zm-1.1-1.5zm1.1-.8zm3.3-.3zm.9-1.3zm-.6-.5zm.5-.7zm.3-1.4zm.5-.8zm-1-1.5zm-.2-.8zm-.4 0zm.6-.6zm.7-.5zm-.8-1.2zm-.2-1.1zm0-1.8zm-1.6 .3zm-3-.2zm-.9-.2zm-1 .6zm-1.9 .1zm-.7-.3zm-.7-.8zm-.1-.9zm-.7-.9zm-.3-.4zm-.1-1zm-.3 0zm1.6-1.3zm-1.4 4.3zm-.4 .6zm-.6 1.3zm-1-.5zm-.1-2zm-3.4 1.5zm.2 .8zm-1.4 .1zm-.3 .7zm.1-1.7zm-.1-1.3zm-.3-.1zm.8-.6zm-.6-.7zm.2-1.5zm-1.5-.2zm-1.4 3.6zm-.2 .5zm-2.5-3.4zm-3.5-5.9zm-2-.3zm-.3-1.3zm-2.1 1.2zm-1.7-1.4zm.1-.7zm-.6 0zm1.1-1.3zm-.8-.4zm-.5-.8zm-.2-.4zm.7-2.1zm-.6-.8zm3-.5zm.7 .9zm.7-.1zm-.3-1.4zm.1-1.3zm1.7-.7zm-.7-2.3zm-2.7-.4zm0-.6zm-.9 1zm1.2 6.8zm-.6 2.4zm3.1-.9zm.4-.7zm.4 .9zm1.8-.4zm1.8 .3zm.5 .4zm0 1.1zm-.7 .1zm0 .2zm2.5-.6zm0 1.5zm-.4-3.7zm.4-1.3zm-1.2-1.5zm-1.1 .9zm-1.1-.7zm-.7 .8zm-.5 0zm-.3 .6zm2.8-5.2zm2.3 1.9zm-.1-4.2zm0-1.4zm1-.1zm.4-.8zm0-.5zm.4-.1zm-.5-.8zm1.5 0zm2-.6zm.9-.3zm.3 .2zm.8-.1zm0 0zm-.4 1.7zm1.6 .5zm.2 0zm1.3 .4zm.6 .9zm1.2-.4zm1.6 .2zm.6 .7zm.4 1.7zm2.3-2.1zm1.8-.8zm1.7 0zm1.1 .6zm1.3-.9zm1 .5zm.4 .4zm-.4 .3zm0 .8zm-.6 .3zm-1.4-3.4zm-1-.3zm-.5-.4zm-1-.9zm-.2-.2zm-1.2-.7zm-.6-1zm.2-.8zm-.6-.4zm0-.1zm-.3 0zm-1.2 .4zm-.2-.9zm-1.1 .7zm-.2-1zm.3-.9zm.1-2zm1.5-.2zm-1.2-1.7zm-1.9 .5zm-.5-.5zm-.8-1zm0-1.2zm-.7-.9zm-.8-.7zm.2-3.1zm2.1 .7zm0-2.3zm-.2-.2zm.3-1.2zm2.2 3.5zm3.7-.4zm.7-.9zm.1-.6zm1.8-1.7zm1.5-2.4zm-.6-.7zm-.8-.2zm-1.2-.5zm4.1 4.4zm-.4 2.5zm-.4 .4zm-.9 .7zm-3.5 .1zm.5 2.4zm3.5 2.3zm1.5-.5zm1.5 3.2zm.2 .2zm0 .2zm-.4 .6zm-.8 1.4zm.3 .5zm1.2 1zm-.2 .7zm1.1-.7zm.5-1.5zm1.4 .3zm1-.6zm.1-1zm.3-1.1zm-.8-.5zm-.3-.1zm.6-.4zm.4-1.1zm1.4 1.5zm-.1 .5zm1.6 2.3zm-.6 .4zm.3 1zm-1.1 .1zm-1.2 .7zm2.9 1.5zm.2 1.1zm.4 0zm2 .4zm.5 2.4zm2.9-4.3zm-2.7-1.7zm-.5-1.3zm-1-.5zm.5-.9zm1.6 .5zm2.5 .3zm-4.8-2.8zm.3-2.3zm-.8-.1zm-.7-.3zm-.1 .1zm.8-1.6zm-1-.2zm-.2-1.4zm-.2-.1zm.9-.4zm-2.1-.8zm-.5-1.7zm2.3-1.9zm.3-.4zm1.5-1.7zm-1.8-1zm-.6 .5zm.1-1.2zm-.9-2.2zm.1-.3zm-1-2zm8.8-.8zm1.3-2.1zm.9 3.4zm.1 .3zm.1 .2zm1.5 1zm.6-.4zm.5 .1zm.5-1.5zm-.2-.2zm.6 .3zm1-.1zm-.4-2.1zm-.3-1zm-.9 0zm-.7 1.5zm3.5-1zm1.4 0zm-.7 1.5zm1.8-.2zm-1.8 2.4zm-5 3.1zm-.9-.4zm-1.2 1.3zm-.7 1zm-.6 .5zm.6 .9zm-1.1 .8zm0 .6zm-1 .5zm-.2 .2zm-.8-.7zm.5-.8zm0-2.3zm2.6-2.8zm.2-.1zm-.8-1.4zm2.3 4.8zm-.1 .7zm.4 0zm-1.3 3.8zm.2 1.7zm1.4-.8zm-3 1.7zm-1.5 .2zm-.5 .6zm-.2-1zm-.2-.9zm-1 .8zm-.3-2.8zm1.7 .3zm1.1 .9zm-9.3 2.6zm-1.4-.8zm-1.5 5.5zm-.2 .6zm-.2 .5zm-4.6 .7zm-.6 .2zm-.1 1zm-.6 .6zm-.7-2.5zm1-.2zm-3.2 1zm-1 1.2zm1.3 1.1zm.4 1.6zm2.7 2.3zm6.4 6.9zm4.5 2.1zm1.4 .4zm-1.4 2zm7.1 3.2zm2.6-4.1zm.3-.2zm2.2-1.1zm.2 11.7zm.4 .9zm.5 .9zm1.7 3zm-1.2 .6zm1 1zm0 1.6zm2.3 .9zm.8-2.7zm2.4-1.5zm.8-1.2zm1.7-.1zm-.1 1.3zm-.6 .2zm-.9 2.8zm-1.6 2.8zm3.7-.1zm1 .2zm0 1.8zm-.8 2zm-8.8-2.9zm-1.3 1.7zm.1 .1zm-1.6 .4zm-.5-1.3zm-2.6 .9zm-1.6-1.3zm-.7-1.4zm-.9 .8zm-.8-.8zm.5-.9zm-1.9-1.7zm-2 .1zm-1.5 1.2zm-1.1-.3zm-.5 .8zm-1.2-.1zm-.6 .7zm.2 .5zm.7 1zm-.8 1.1zm-.6 .5zm-.1-1zm0-.2zm0-.1zm2 1zm.1 1.9zm1.1 .3zm.6-1.1zm1.1 .7zm-.1 1.8zm-1.3 .4zm.1 .5zm-1.1 .5zm-1-.1zm.7-1.2zm-.1 3zm.9 1zm.3 .5zm-.7 .6zm-1.7 .8zm-.6 1.6zm.1 .2zm-.8-.4zm-.7-.7zm-1.2 .7zm.4 .6zm.2 .6zm1.2-.1zm-1.9 1.3zm1.8 1.4zm2.1-1.4zm1.6-1.6zm2.3-1.3zm1 .5zm.1 .1zm.5-.1zm-.2-.5zm.8-.4zm-.1-.6zm.7-.5zm1.1 .9zm.4 1zm.2 0zm-.5 .6zm-1.3 .3zm.2-1.1zm-1.7 1.5zm-.7 1zm-.9 1.7zm-.4 .1zm-.7 .3zm2.5 2.9zm0 .3zm.5-.3zm-1.6 1.4zm-1.4-.1zm-.1 .7zm-.6 0zm-.6 1zm0 .4zm.4 .5zm-1.8-.9zm.2-.5zm.6-1zm-1.8 1.2zm-.1 .2zm-.2 .5zm-.6-.7zm0-.1zm-.3 .4zm.8-.6zm1.2 1.2zm2.4 3.4zm.9 .5zm-.3 .5zm.3 .9zm1.1-.4zm-.6 1.6zm.4 1.2zm1.4 .4zm0 .6zm.5-1.1zm.6-2.1zm1.8 .4zm-.1 2.8zm-2-5.2zm.7-.3zm.3-.8zm-.3-.3zm-.1-.1zm-.5-.3zm-.3-.5zm.5-1.2zm.1 0zm.4-.2zm-.4-.8zm.9 0zm.9 .5zm-.5 .6zm.3 .4zm.9 .6zm.2-.8zm.9 .4zm-1.8 .9zm.2 .8zm-3.8-.6zm-.3 .9zm.3-2.8zm3.7-5zm2-1.5zm-.8-1zm1.5 2.3zm.9 .7zm.3 .3zm-.3 1.2zm.3 .1zm.5 .2zm.7-.8zm-.9 2.7zm-.3-.1zm-.2 .1zm1.5-9.9zm-.7-1.5zm-2.7-.5zm-1-.7zm-.4 .2zm.7 1.9zm-2.3-3.4zm-1.1 .3zm-1.3 .2zm.6-2.6zm2-.8zm.2-.5zm.5 .3zm.6-.8zm-1-.4zm-1.9-.9zm.2-.4zm1.1-1.2zm-1.7-.7zm-.3-.3zm-.3 .8zm-1.2-.4zm.5-2.4zm-.3-.1zm-1.1 .2zm-5.1 4.2zm-.7 2.1zm.5 1zm.1 .3zm.2 .6zm.3-.2zm-1.6 .7zm-.7-.4zm-.1 .5zm-.3-.1zm-.4-1.1zm-.5 3.6zm-2 1.9zm1.4 1.9zm-.2 1zm.2 .3zm-.9-.1zm-1.8-.7zm.3 2.1zm-4.9-2.9zm.1-.8zm-.6-.8zm-.3 .2zm-.3-1.1zm-2-1.3zm0-.7zm.2-.7zm.5-.5zm.8-.2zm-.6-.7zm.7-.3zm.5-.4zm-.2-.4zm.2-1.7zm1.5 2.2zm1.2-1.5zm0-4.6zm3.8-.2zm3.4-1.1zm.3-.4zm-.1 2.4zm-2.9-8zm-2.6 .9zm-1.1-.7zm-.5-.6zm.6 2.2zm-1.3 .5zm-3.5 3.8zm-1.2 .9zm-.2-.2zm0 1.8zm-5.2-2.2zm5.2 8.2zm-1.4 1.7zm-1.2 .6zm.6 1.6zm1.3 .9zm1.1 .5zm1.1 .5zm-2.1 1.6zm-.3 0zm-.4-.8zm-3.7-1.7zm-.8-1.7zm-.5-.4zm-6.7 8.2zm0 .6zm-1.1-.1zm-.2-.9zm-.5-.2zm-.5-.2zm.3-.9zm-.8-.6zm-1 .6zm-1.4-1.7zm-4 3.9zm-1.6 1.9zm.7 3zm.6 .4zm.4 .2zm1.3 2.1zm0 .1zm-1.1 2.2zm-.8-.5zm-.4 2zm2.8-.9zm.4 1.8zm.4 1.1zm.7-.4zm0 .8zm-.6 1.3zm-.8-.6zm-.2 2.1zm.8 .8zm-3.2-1.5zm-.7 2.1zm0 .1zm1.3 2.5zm-.1 2.4zm3 1.6zm1.9 .7zm1.4-1.3zm.9-1.7zm2.1-3.3zm2 1.4zm3 2.9zm-5.7-7.6zm1.9-1.7zm-.1-3.4zm1.6-1.3zm-.9-1.3zm5.6-2.7zm-7.4-3.4zm-.9-.8zm-.3 .6zm-5.2 2.9zm1.4 2zm-10.7-10.1zm-1.3-1zm-2-4.4zm4.5-2.5zm.9 1.8zm.8 .7zm-.3 .4zm3.9 .4zm.1-.8zm5.6-4.3zm-3.3-8.3zm.4-.2zm-4.4 1.4zm-.5-1zm-1.2-13.6zm-4.3 .4zm.5-4.1zm1.9-1.1zm-5.4-1.4zm-.4 .2zm-1.5-.7zm-8.9-.7zm-.6 .3zm-11.2 2.8zm-.6-.8zm-1.4-5.4zm-2.6-.9zm5.5-4.9zm-2.3-10.2zm1.9-1.5zm-.3-3.8zm-1.4-3.9zm.1-.7zm-.4-.4zm-.8 1.1zm-1.8 .3zm-.1 .2zm-3.1 .2zm-2-3.8zm-.3-1.4zm-2.5 .4zm-.5-.9zm-.7-.6zm-.5-.2zm-.5 .3zm.8 1.1zm-1.2 1.2zm1.2 1zm-.3 .5zm1 .7zm-2.8-.8zm-.4 1.5zm-1.5-1.1zm-.3-.6zm-.7-.2zm-.3 1.4zm-.1-3.2zm-.6-1.4zm.9-1.4zm-.6-.7zm1.2-1.3zm.5 .2zm.4 1zm.8 1zm-.8 .7zm.1 1.3zm1.3-3.6zm.1-.4zm.3-.4zm.2-.3zm.2 .3zm.9 .4zm-.1 1zm1.2 .4zm1.1 .4zm0 .2zm.8-1.1zm.7-.7zm-.3-1.6zm.8 0zm-.6-1zm.5-1.1zm1.5 1.3zm-.2 .4zm1.3-.1zm1-.2zm-.4 1.1zm1 .3zm1.3-.8zm.6-.6zm.6 .7zm-.3 .2zm.5 .8zm1-.4zm.3 .3zm.7 .1zm.4 .1zm.9 .3zm.1 .1zm.2 0zm.1 .3zm0 .4zm-.4-.4zm-.2 0zm-.9 .3zm-.8 .2zm-.8 0zm.2 1zm-.5 1.2zm-.5 .6zm1.3 .5zm1.6 2zm2.7 1.1zm.2-.4zm.8 0zm.8 1zm.8-1zm1.6-.2zm1.3-.1zm1-1.6zm-.3-1.1zm-1.3-2.5zm.6-.3zm.1 0zm.8-.3zm1-.4zm-.7-1.4zm-1.9 .5zm-1.5-1.6zm-.5 .2zm-.9-1zm0-.6zm-1-.3zm-.2 .5zm-1.2 .8zm.5 .9zm.5 .3zm.2 .2zm-1.9 .1zm-.6 .3zm-.1-.8zm-.2-.1zm-.1-.5zm-1-.6zm-.5-.4zm0-1.4zm1-1.5zm1.1-.4zm.5-1zm-.1-.9zm1.1-.3zm.8-.7zm.2-.8zm.9 1.8zm0 .7zm.3 .2zm.1-.3zm.4 .7zm.5 .9zm.2 .4zm-.7 0zm-.7 .7zm2 .4zm.2-.5zm1.3-.7zm.7-.3zm.4 .7zm-.7 .4zm.3 .3zm-.2 .8zm-.2 .6zm1.6-1zm.4 .1zm.5-1.1zm1.4 1.6zm2-.9zm-.3-.9zm.4-.2zm.9-.9zm.5-1zm-.1-1.1zm.6-.5zm-.5-.7zm-.2-.4zm-.6-.4zm.2-.8zm-.2-.8zm0-.3zm.7-.1zm1.1 2.1zm.1 .1zm0 2zm.2 .5zm1.3 .1zm.9-.5zm1.7-.7zm.4-.3zm.2 .1zm.5 .6zm.7-.3zm.5 .3zm-.3-.9zm1.2-.4zm.9 .6zm.7-.2zm-.4-1.1zm-1.2-.6zm-1.7-.2zm-.2-2.1zm.9-1.3zm-.5-.3zm-.1-.9zm1 .7zm.2-.3zm.8-.4zm-.1-1.9zm.1-1.1zm.6-.7zm.9-.1zm-1.5-.8zm.5-.7zm.1-.6zm-1.6 0zm-1.5 0zm-1.7-.6zm-.4-2.8zm.1-.1zm0-1zm0-2.2zm-1.2-.2zm-.6-.5zm-1.6-1.2zm0-.8zm.5 .1zm-.3-1.7zm-.7-.3zm-.8 .1zm-.8-.1zm-1.5 2.3zm-.3 .5zm-.5-1.2zm-1.6-1.3zm.1-.3zm-.2-.3zm.5-.9zm-1.5-1.3zm-1 .4zm1.5 2.9zm-2.6 1.2zm-1.6 .8zm.2 .9zm.6 1zm.4 .3zm.8 .2zm-1 .9zm-.7 1.2zm1 .8zm-3.2 1.1zm-1.1-.2zm-.4 .2zm-.4-.8zm-.1-1.5zm1.5-.7zm1-2.4zm0-.6zm-.8-.5zm.8-.5zm.8-.4zm-1.2-2zm-1 0zm-.5-.2zm-.6 .4zm.9 .5zm0 1.2zm-.9 .6zm-1 .9zm-.4-.3zm-.5-.3zm-.2-.8zm.6 0zm.1-1.1zm-1.1-.3zm0-.3zm-.6 .4zm0-1.2zm-2.5-.3zm-.2-.2zm-.8 .6zm-.3-.8zm-.9-.1zm1.1 1.9zm.7-.3zm0 .6zm.5 .2zm.6 1zm1.5 .4zm-.3 .7zm0 .5zm-.8 .4zm.5 2.5zm-1.9 .5zm-.4 2.9zm-.2 3.1zm2.6 1.9zm.5-3.3zm3.3 .6zm.7-.8zm.2-.5zm.6 0zm.1 .6zm-.5 3.2zm-.4 .2zm.6 2.1zm2.4-1zm1.8 .8zm1-.2zm1.9-.2zm.8-1.7zm.1-1.5zm.1-1.3zm2.1 1.6zm-.5 1.4zm2.1 .7zm.9 1zm.7 1zm.5 .8zm2 1.2zm.5 .1zm.3 .1zm.6-.3zm-1.3 .8zm-.5 .4zm.6 .5zm2.5 4.3zm2.3 0zm1-.1zm.8-.2zm1.1-1.8zm.3-.2zm.6 .3zm.4-.3zm1.5 .8zm.3-1.2zm0-.7zm1.1 .1zm.8-.3zm.7-.4zm0 1zm.1 .9zm1 .4zm0 0zm-.4 .9zm-.5 .2zm-1-.7zm-.8-3zm-.1-.2zm-1.1-1zm-.4 .3zm-.5-.3zm-.4 .9zm-2.1 .1zm.1-1.5zm-1.5 .9zm-1-1.2zm-1.9-3.1zm-.5 .1zm-1.8-1.2zm.2-1.3zm-1.9 .1zm-.1 .5zm-.6 .3zm-1 .4zm1.2 1zm-.7-3.9zm.3-.2zm-3.2-1.9zm.6-5.4zm.3-.6zm-1.8 .6zm-2.1-.1zm1.7-7.1zm-1-4.9zm.6-.8zm-.6-.4zm-1 .8zm-.9-1zm-.5 1.1zm-2.9-1.1zm7.9 1zm.5 .7zm.5-.1zm3.7 6.4zm2.3-.2zm.2-.2zm.7 1.3zm.4-.1zm-.2 .8zm-1.1-.2zm.1 1.6zm-1.1 0zm-.6-.4zm-.7 .2zm4.2 1.8zm.8 .3zm.5-.1zm.6-.3zm.5 .2zm.2 .1zm-.2-.6zm.5-.7zm-1.4 .1zm0 2.2zm1 .4zm0 .6zm-.5 .1zm.9 .3zm.3 0zm.2-1.7zm1.7-1.6zm2.3 1.3zm1.8 .3zm-1.4 1.7zm-1.1 .6zm-.4 .2zm-1.1-.6zm-3.4 1.2zm-2.1-.2zm3.8 4.1zm2.8-1.1zm1.1-.8zm2.4-.5zm1.5 2.6zm.5 0zm.4 .6zm1.1 .2zm.1 0zm.9-.3zm-.6-.8zm.8-.6zm1.2 .5zm.1-.6zm-.1 1.7zm-1.8 1.7zm.3 .6zm-2-.3zm.1-.6zm-.8 .1zm-.2-.5zm-.5-.8zm-.7 1.2zm.5 .4zm.9 2.9zm.2 1.7zm-.3 .3zm.8-.4zm1 .5zm.2-.4zm.6 .7zm.3 0zm.4 .6zm-.1 .2zm-1 .6zm-.7-1zm-1.8 1.3zm.9 2.3zm3.8-2.6zm.4 .5zm.9 .1zm-1.4-1.9zm0-.8zm-.4-1.4zm2 .5zm.3-.4zm.6 1.6zm.9 .6zm1 .4zm.3 1.4zm.2 .2zm-1.3-4.4zm1.3-1.5zm2.1 .8zm.9 .8zm-4.4-4.6zm.5-.7zm-1.8 2zm-.3-.1zm-9.4 3zm-2.5 .3zm-.8 .4zm-.1 .4zm-.3-.7zm-.7-.8zm-.1-1.5zm1.9-.7zm.7 4.4zm.1 7.8zm-.9 2.2zm-2-.6zm-.5 1.4zm-1.4 1.5zm-.8 .7zm-2.4 .9zm-.7-4.1zm1.6-.7zm.6-.1zm-4.2-.6zm-1.3 1.4zm-1.3-.8zm-.2-.4zm-2.5-1.8zm-.7-.6zm1.4-.3zm.1-1.1zm-4.7 .5zm-1.1 .7zm-.8 0zm-.2-.4zm-1.9-2.4zm-.4-.7zm.6-.9zm.2-1zm.5-.1zm1.5 1.1zm1.3 .9zm2.6-1.8zm-7.8 .4zm-.6-.3zm0 1.1zm-.8 .6zm-3.2-1zm-.6 3.7zm-1 1.2zm-1.8-.9zm.9-.9zm-1.9 2.4zm-1.3 2.4zm.1 .2zm-1.3-1.2zm-1.4-1zm.7-1.6zm-2.5-.3zm-2.4-2.9zm-2.5 1.4zm-3.5 .1zm-2.7 3.3zm-.5-.4zm.5 1.7zm.1 1.2zm-.2 .7zm-.5 .2zm.7 1.4zm-.2 .3zm-.8 .5zm.8 1.3zm-.1 .4zm-2-.9zm-1.8-1zm.3-.7zm-1.5 .5zm-1.4-.3zm-1.3-.5zm-.2 .1zm-.8-1.1zm0-1zm-.2-.3zm.9-.7zm.4-.2zm-.2-.3zm.1 1.1zm.3 1.2zm-2.4 .4zm-.6 .1zm0 .5zm.6 .8zm.2 .6zm.5 .1zm.4 .1zm.2 0zm.5 1.6zm.6 .3zm-.5 1.3zm.6 .2zm.4 .7zm.2 .5zm-.9 .1zm.4 .7zm1.8-1zm-.4 3.1zm.2 2.5zm0 .9zm-.4 1.1zm.4 .8zm-1.2 2.8zm-2 1.7zm1.7 1.4zm-3.5-3.2zm1.4-2.5zm.5-2.3zm-2-1.7zm0-2.3zm-.3-.7zm-1.4 .8zm-.2 .6zm-1.4-.7zm0-.6zm.4-.6zm-1.4-.3zm-.4 0zm.8-1.1zm1.5-.7zm.1 0zm1.2-1.7zm1.2-.7zm.8 .1zm.4 1.3zm-.8 .9zm-.8 .7zm-2.5-4.1zm-.2 0zm.3-.3zm1-.5zm.4-.3zm-.6-.9zm-.6 .6zm-1 .2zm.1-1.2zm-.7-.3zm-.4-.3zm.5-.3zm.7-.1zm-2.5-.4zm.2 3zm.5 0zm-.2 1.3zm-.7 .3zm.3 1.7zm.1 .4zm-.7 1zm.3 2.7zm-.2 .6zm.8 .4zm1-.2zm-4.2 3.3zm-2.1-14.5zm-.1-.5zm.9-1.1zm2-1.3zm-.7-2zm-.7 0zm-.1-1.2zm.8 0zm.5-1.3zm.1 0zm.4-.4zm.4 .5zm.6 .8zm.7-.8zm1.4 .5zm.1 .4zm1.4-.4zm.3 .7zm.7 .4zm.2-.1zm1.1 .3zm.5 .7zm.4-.7zm.3 1.2zm.9 .7zm2.2-.5zm.9-2.1zm.3 .1zm.3-.4zm1 .8zm2.9 2.2zm.4-.5zm-1.4 2.6zm-2.6 .8zm.5 1.2zm-5.1 .4zm-1.4-2.2zm-.8-2.5zm-1.8-1.3zm-3.6-.3zm-2.9-2.8zm.8-.7zm-1.4-.2zm-.8-1zm-.5 1zm.2 .8zm.2 .2zm-1.7 .5zm-.5 .5zm-.9 1.7zm1.1 1.1zm.2 1.6zm0-7.2zm-2 .1zm-1.9-2.2zm3.8-.1zm.4 0zm1.6-.5zm.6-.3zm1.5 1.1zm.3 .4zm2.7-.5zm1 1.2zm.9 .1zm.4-.6zm.6 1zm1.3-.3zm-.5-1.8zm-2.3-1.9zm3-2.2zm4.6-4.2zm1.2 1.8zm1.7-2.3zm-.7-1.3zm1-1.1zm1.3 2.3zm1.4 .1zm.1 0zm-.2 .6zm-1.4 2zm2.7 2.8zm3.3-7.5zm0-.4zm-2.1-.4zm-.4-.3zm.6-1.2zm-1.4-2.1zm-.2-1.6zm7.3 4.6zm4.9 0zm1.2-3.2zm-.7-.3zm3-3.6zm6.7 .3zm2.2 1.7zm-7.4 5.2zm-.4 14.3zm-1.3 1.9zm1.4 .8zm-1.2 1zm4 6.1zm1.3 4zm0 .2zm.9 3zm-2.7-.2zm-4.1-.9zm0-.4zm-4.3 .3zm-.6-1zm0-1.1zm-.6 .1zm-1.2-.9zm-.4 .8zm-.8-.1zm-.5 1.3zm-.5-3.8zm.3-1zm-2-.8zm-2.3-.4zm-.3 3.4zm-4.6 12.1zm5.4 1.8zm1 1.1zm21.2-8.2zm1.2-.5zm-.4 1.9zm1.7-.4zm.2-2.8zm0-.4zm.2-1.7zm.7-3.3zm-3.2-2.6zm-1.1 6.1zm11.5-1.6zm15.9 8.6zm1.1-.1zm-6 16.5zm1 1.1zm6.3 .4zm11.8 2.8zm3.8-2.4zm-.2-.5zm0-.5zm.6 .1zm-.4-.8zm-1.4-1.2zm3 2.8zm.6-.3zm1.2-.3zm-.6 1.4zm2.7 1.2zm.4 .7zm-.3 .3zm-3.4 2.8zm-.2 2.8zm.2 .2zm1.2-.3zm1.2-.1zm-.5 1.6zm-2.6 .1zm-.9-.8zm3.2 4.2zm2.6 2zm.9-8zm-9.1-14.9zm5.3-6.7zm1.9-6zm4-1.7zm-1-1.8zm3.1-6.6zm10.8 13.6zm-4.7 40.9zm21.2 5.6zm-.3 1.8zm2.6 .8zm-.9 7.8zm-.4 1.8zm-.3 0zm.3 .5zm-1.7-1.3zm-1.6 1.3zm-.4-3.2zm6.2 2.9zm1.2 .2zm6.4-19zm25.1 23.5zm1.5-.8zm1.4 .3zm-50.2 20.2zm-1-.5zm1.5 14.5zm-36.4 3.2zm-2.1 4.7zm-4.9-3zm-12.9 15.8zm-.2-.1zm-1.1-.2zm-.1-.2zm-.1 1.5zm-5.4-4.1zm-4.9-3.5zm-2.7-2zm-1.4 0zm-2.6-1.8zm2.1-1.4zm.9-.9zm-3-1.8zm-.1-.9zm-3.6-.5zm-1.2-2zm.2-10.5zm-1.9-.9zm1.2-1.8zm1.5-2.6zm1.4 1.2zm1.2-.2zm.5-.1zm.3 0zm-1-1.5zm1.5 3.3zm1.3 .1zm.5 .6zm-.5 .9zm-2.4-.7zm2.2-9.3zm-1.4-1.4zm-1-1.2zm-.8 .4zm0 1.8zm-1.8 .2zm3.4-3.7zm-.2-4.8zm4.2-5.2zm3-4.8zm-15.1 3.8zm-6-1.1zm-1.9 2.1zm-2.1-1.1zm-.8-.8zm3.5 6.5zm5.7 3.2zm.6-.4zm-.9 1.8zm-.4-.2zm-.8 .9zm-.8 1.8zm-.9 0zm-7.2 10.8zm1.8 1.7zm3.3 1.2zm1-.5zm.6 2zm-1.1 3zm27.3-12.7zm3.6 1.4zm2.3-8.3zm-1.1-1.8zm-21.5-27.2zm.1-1.8zm.1-.1zm1.2-.2zm-1.7-1.8zm-.6-.2zm-1.1-.7zm2.1-2.1zm.4 .2zm1-.3zm1.3 .4zm.4 .2zm-.4 1.8zm-.6-4.1zm-10.7 8.3zm-2.5-.7zm-4.6 2.9zm-2.8 .3zm-2.7-2.1zm1.3 7.8zm12.1-1.1zm.2-.8zm-19.7-72.8zm-.3-.6zm-6.4-2zm-.4 0zm-3-5zm.4-2.8zm-2.6-.4zm-1.3 3zm78-11.9z"/>
<path class="ps" stroke="#5a126c" stroke-width="1.0" d="M302.7 499.5zm1.8 .4zm3.2 .5zm.3 .6zm.7-.8zm-1.2 2.2zm.9 1.6zm1.8-1.3zm1 2.1zm1.1 .4zm-.3 .6zm.8 1.3zm-1.6 2.7zm-.5 1.4zm-.5-.2zm8-7.5zm-.5-2.8zm-.5-.1zm0-1.6zm1.4-4.9zm.3-.5zm2.7-2zm-1.1-1.1zm-5.1-1.5zm-1.3 1.7zm.3 .8zm-2.9 1zm-1.4-.9zm-.4-5.3zm13.7-4.8zm-.6-3.8zm4.6 1.8zm-.2 1.3zm-.1 3.7zm-1.5 4.1zm5.4 4.9zm-.2 .3zm-.8 1.1zm.1 1zm-.2 .1zm-1.2 .6zm.3 .4zm-.3 .9zm-.6-.4zm1.5 .7zm1.9-1zm1.1-1.8zm1.4 1.8zm.6-.7zm.4 .8zm.4-.2zm1 1.2zm-.8 1.7zm-.5 2zm-.5 .1zm.1 2.8zm-.9 .4zm2.1 1.3zm.8-.1zm1-1zm1.8 1.1zm1 .9zm1.2 .2zm.3 2.9zm2-.9zm.9 .9zm.7 2.1zm.8 .3zm-1.2 1zm-1.4-.9zm-.6 1.1zm-1.4 .3zm-1 2.2zm3.9 1.8zm3.5-.1zm1.3-1.1zm1.1 1.7zm-.5 1.6zm-1.1 2.3zm4.8-3.3zm.4 .1zm-.6-.9zm-2.1-2.1zm.4-.4zm3.1-.5zm3.5 0zm1.6 .9zm.6 .8zm-.7 1.4zm2.9 .2zm.4-1.6zm.6-.7zm1.3 .3zm2.4 .4zm.4-.8zm-.1 2.6zm-2.8 1.3zm-2.2-5.4zm-.6-.2zm.7-2.3zm-.3-1zm-1.1 .3zm-1.4 1.1zm-.7-1.1zm-.4-.8zm-1.8 0zm-3.6 .1zm0-.3zm-1.3 .2zm-.3 .4zm-1-.1zm1.6 1.1zm-3.4 1.6zm-2 .1zm1.1-4.7zm1.1 .3zm2.1-1.2zm.6-2.3zm2.6-1.4zm-1.3-1.6zm2.1-2.1zm.7-1.6zm.1-1.3zm-1.1 .2zm0-.8zm1.3-1.5zm1.9 .2zm1.6 .1zm.4-.4zm1.7 .9zm.5 1.7zm.3 1.3zm1-.9zm1.1 .1zm1.9-.1zm1.1 2.2zm-.3 .2zm.3 1.7zm.7 2.4zm1.5 1.1zm-.6 1zm3.2 2.9zm1-.9zm1.8-1.4zm.9 1.9zm1 2.3zm-.2 1.3zm1.6-.8zm2.8-.4zm1.7 1.7zm.1 .2zm.3 2zm-.2 .4zm-.2 .5zm.7 .6zm.2 .1zm.9 .3zm1.4 .3zm.4-1.3zm0-1.4zm2.5 .9zm3.5 1.6zm.2-.1zm1.3-1.9zm1.4 1.2zm1.4-1.1zm1 0zm1.9 0zm.6-1.5zm1.9 .4zm.4 1.2zm.4 .6zm-.5 .8zm1.5 1zm1.7-.2zm2.5 3zm5.9-3.7zm.1-1.1zm1.3-1.4zm-.8-1.5zm-1.6 .4zm-1.2-1zm.7-1.2zm.5 0zm-1-1zm-1.6 .5zm-1.1-.2zm-.5 .3zm-.7-.8zm-.8-1.3zm-1.2-.8zm1.3-.8zm.7-1.1zm-1-.5zm.7-1.2zm.9-.4zm-2.4-1.2zm.2-.5zm-.7-.1zm0 1.2zm.1 .2zm-.9 .4zm-.3 2.6zm-4.1 1.9zm-.1 .5zm-1.5 .2zm-.9 .9zm-.9 0zm.4 .9zm-.8 .6zm-2.3-.2zm-.8 1.8zm-1.2-.7zm-.3-.8zm-.5-1.2zm-.2-.5zm0-2.1zm0-.5zm-.6 .2zm-.5-.8zm-.5-.1zm-.4-.7zm2.2-1zm.2-.4zm.4 .7zm.4-.4zm-1.1-2.6zm1.3-1.2zm1.3-1.3zm-3.1-1.5zm-2.2 1.1zm-.3-.1zm-.2-2.9zm-2.8-.8zm-.7 3.2zm.1 .6zm-1.8 .6zm-.5 1.5zm.8 1.1zm.9 .1zm.2 .3zm1.7 1.8zm-.6 2.8zm-1.2 1.6zm-.2 .6zm-.1 1.1zm1.6-.3zm.7-.8zm6.4-1.4zm3.1-.5zm.1 .8zm.6-2.1zm2.3-1.5zm1.9 5.7zm-.6 .8zm-1-.2zm4.4 1.6zm.3-.3zm2.4-.3zm3.2-3.3zm2.9-2.5zm1 1.1zm1.6-.5zm-.8-1zm1 2.3zm-.5 .8zm1.6-.9zm.1 1.7zm.9 2.5zm.2 2.1zm1.9 .2zm.6-1.1zm.7 .1zm-.4-1zm1.1-1.1zm-.4-1.8zm-.6-.9zm-1 1.5zm-.7-2.2zm3.1-.8zm.9 1.8zm1.2 .2zm.5-.2zm-.2 .9zm.7 .4zm-1.8 .1zm-.2 3.2zm1.7 2.5zm-3.8 .3zm-4.8 1zm11-5zm2.2 .6zm.8 .2zm.9-2.2zm2.3 .4zm2.1-.1zm-.8-1.6zm-1-.5zm2.1-1.4zm1.1 .5zm-.5-2.3zm.9-1.1zm1.5-.8zm-.2-1.2zm-3-1.5zm-.6 1.7zm-1.4 0zm-1.4-.4zm.3-1.9zm-2.4-.3zm.3-1zm-2.1 .5zm-1.3 1.1zm-1 .3zm.1 .6zm-.2 .1zm2.1 .1zm1 2.9zm.9 .4zm1 .6zm.5-.6zm.2-.2zm-.1-.2zm-.4 .1zm-.1 2.4zm-1 .6zm-1.4 .1zm-1.2 .7zm0-1.6zm-1.7-2.3zm-.4 .3zm-3-2.7zm-.7 .1zm-.6-1.2zm.8-.6zm-.1-1.6zm.9-.4zm-.6-.6zm-1.5 .7zm-2.2-.7zm2.1-4zm1.4-.1zm-2.6-.8zm.3-2.8zm-.7-.5zm-1.1-.8zm.2-.6zm.7-1.1zm1.4 0zm.6 .5zm.7 1zm.3 .2zm1.1-.3zm-.8 2.2zm3-1zm.8-1zm-.3-.2zm-1.8-2.9zm-.8-.1zm.7-1zm1.1 .6zm2-2.3zm.4-1.5zm-1.6 .4zm2.5-1.9zm0-.3zm-1.2-2.7zm-6.4 2.2zm-1.7-2.4zm-1.9 .3zm-1.3 2.7zm-2.7-1.2zm-.6 1.7zm-4.7-.3zm-1.4 1.2zm-.7 2.8zm-1.5 .4zm-.2 1zm.7 1.5zm2.5-.4zm.3 1zm1.3-.9zm.9 1.8zm.6-.4zm.2 1.6zm.3 .1zm-.5 2.2zm-1.2-.2zm-1.2 2.1zm-1.7-.3zm-.4-.6zm-1.5 .5zm-2.6 2.7zm-2 1.1zm-.7-2.4zm.6-.1zm.2-.5zm.2-.3zm-.5-1.8zm0-2zm1.3-.9zm.2 .3zm2.2 .1zm2.3-.2zm1.1 1zm1.8-1.5zm3.4 2.9zm.2 1.7zm1.5 .6zm-1.6 4.1zm-1.3 1.7zm.6 1.3zm1.9 .9zm2.4 .7zm5.2 1.1zm3-4.8zm1.5-.7zm.3-.5zm-.8-.4zm-.3-.7zm.4-.2zm.3 .2zm.1-.1zm.8-.7zm.9 .3zm1.2 .4zm.5-1.8zm.6-1.2zm-.8-.2zm-.8-.3zm.4-1zm-2.1 .3zm-1.1 .5zm.4 1.6zm.2 .6zm1.2 4.1zm4.2-3.2zm.6 0zm.2-.4zm0-.2zm-.8 0zm-.2 0zm.4-.7zm1.4-.8zm1-1zm-1-.6zm-.9-.3zm0-1.1zm0-.5zm.3-.2zm1.4-2zm1.5 .1zm.2-.5zm.4-.2zm-.1 1.2zm-.8 1.1zm1.3 .4zm-1.3-4.7zm-.5-.5zm-1.1-.1zm-.8-1.5zm1.3-.7zm.5 .3zm1.1 1.4zm1.2-2zm-1.7-1.4zm4.2-.1zm.1 2.3zm2.4 1.4zm.6 1.7zm3.7 .1zm.5-2.8zm1.6-.6zm-4.1-.1zm.1-1.7zm-1.2-.6zm-.1-.6zm.4-1.5zm1.2-1.4zm-.3-1zm-.2-.2zm0-.6zm-.9 1.3zm5.2-.5zm3.9-.6zm-.3-1.8zm.3-.3zm.9-4.2zm-10.9 2zm-4.8-7.2zm-.3-.3zm-.2-.4zm-.1-.3zm-.8 .9zm2.5-3.1zm0-3.5zm-3.2-6.5zm-.9-.3zm-.8-1.8zm-1.1-.9zm2.2-2.4zm.2-1.1zm-1.8-2zm-1.1-.6zm-2.1-1.7zm.4-.5zm-1.5-1.4zm-.5 .4zm-.6-1zm-.5-1.5zm-.7-.3zm-.1-.8zm-.8-.6zm3.2 .4zm.7-1zm2-2.2zm-.4-2.4zm4.2 .1zm2.5 .3zm-.8 2zm-.1 .6zm-1.9 1.1zm2.3 1.6zm0 2.9zm-.1-10.5zm.8-.7zm2.6-3.1zm3 .1zm2.1-3.7zm1.6-1.3zm-9.7 3.2zm-17.6 11.9zm-.2 .1zm-.9 .9zm.4 1zm-2.7-.4zm-2.3 1.7zm.4 2.3zm.4 .3zm.3 2.1zm.1 .7zm-3.1-1.3zm-4.3 .1zm.1 3.7zm-1 2zm-1.4 .3zm.8 3.4zm1.3-.1zm.9 2.8zm1.7 1.4zm3.7-2.6zm-1.1-4.8zm-.8-.5zm2.9-.1zm.3-.8zm3.1 3.5zm.3 4.4zm-.4 1.2zm4.3 1.8zm3.7-8.9zm-2-2.1zm1.3-1.1zm1-1zm-.2-.7zm0 0zm1.2 1zm.3 .3zm-2.4-3.4zm-3 3zm0 .6zm-.5 .6zm.6 .5zm-1.5-1.4zm.1-.2zm-10.8-7.3zm-1.1 1zm-1.2-2.8zm2.7 0zm-5.6 1zm-3.5 11zm-1.2 2.8zm2.9 1.1zm0 1.7zm-.7 .2zm-.4 .6zm-1.2 0zm-4.4-.3zm0-1.3zm.4-.7zm-.3 7.8zm-.3 3.5zm-.5 1.5zm5.9-5.5zm3.4-3zm.2-.1zm.7 8.7zm-.5 1zm3-.2zm-1 10.7zm-.3 2.6zm-6.4-.8zm-1.3-.1zm.2-2zm-.8-3.4zm-4.2 3.1zm1.1 4.4zm-.6 1.5zm-2-1zm-3.1-1.6zm-2.5 .5zm.5 2.6zm-1.6-.1zm-.8-.4zm-1.5-3.4zm-1.2-2.8zm-1.2-1.1zm1.3-1.3zm.5 .4zm.4-2.9zm2.9-2.5zm-1.1-2.7zm-1.5-.7zm-1-.9zm-3.7-.5zm-6.7-1.6zm-7.1-1zm-5.5 4.2zm-1 2.7zm-.7 3.6zm-3.3 .7zm-2.2-1.4zm-5.1 2.9zm2.2 3.5zm-3.3 1.6zm-1.8-.9zm-5.4 1.8zm-3.4 .9zm-2.6 1.3zm-1.6-.3zm2.6 3.1zm1.5 4.5zm0 .4zm.9 .6zm.5 .2zm2.8-1zm2.3 2.8zm.4-.1zm1.8 1.3zm.1 0zm1.6-.7zm-.5-2.9zm-.8-1.7zm-.6-1.8zm3.5 .3zm1.3-.5zm-1.3 2.1zm2.4 1.1zm2.5 .2zm1.3 .2zm.8 2zm-.3 .3zm2 .5zm2.4-5.3zm.7-.6zm.4-2.1zm-.2-1.9zm-1.4-1.1zm.4-.8zm-.3-1.7zm-1.4-1.7zm3.8-1.5zm.5 0zm.8 1.4zm1.4 0zm2.8 2.1zm.1 .5zm.3 .1zm.7-.5zm1 .8zm-.3 1zm2.3 .9zm2 1.4zm.2 3zm3.6-.2zm1.5 1.1zm1.4 2.2zm1.5 0zm2.2-2.3zm-.8-.7zm2.6 3.6zm-.3 .4zm0 1.9zm2.3-1.8zm2.7 1.4zm1.5-.9zm.8-1.2zm1.6-1.1zm-.2-.6zm.2-1zm-.4-.7zm2.7 .1zm1.5 .5zm-.1 1.1zm.9 1.7zm-.6 2.7zm-.3 1.3zm0 .2zm.3-.1zm-.2 1.1zm-1.4 0zm-.3-.6zm-1 .4zm-1.4-.9zm.7-.8zm1.3-2zm-.7-1.6zm-.1-.1zm4.4-5.5zm-.4-.8zm-.7 0zm-.3-1.5zm.4-.9zm2.3 2.8zm3.3 1zm-2.1 2.5zm-3.1 9.1zm4.4 3.6zm2.7-.2zm.4 .1zm.7 1zm.9-1.2zm1.3-.1zm4.5-10.6zm1.8-2.8zm2.3 2.5zm-.1 2.9zm.7-7.8zm12.8 1zm.1 1.2zm1.2 2.7zm-2.4 1zm2.8 8.1zm-6.9 36.7zm-22.4-6.6zm-9-1.8zm-.6-.9zm1.5-2.6zm-3.1 7.6zm-5.5-7.3zm-1.3-2.4zm-.3-.9zm-.5 .2zm.1-.6zm-1.5-1.1zm-1.7 2.7zm-.9-.5zm-1.9 .6zm-1.9 1.5zm-1.8-.9zm1.1-2.9zm-.4-4.1zm-.3-.2zm-4.1 1.1zm-.2 2zm-2.2-4.7zm-1.4 .2zm-1.2 .3zm-.5-1.5zm.1-1zm.3-1.3zm-.9-.3zm-2.5-.8zm-.7-.9zm-1.5 .5zm-2.1-3.8zm2.1-.6zm.1-1.6zm-1.3-1.2zm-1 .5zm0-1.3zm-.5-1.2zm2.1-.5zm.7 .1zm-.2-.7zm-7 .5zm-.5-1.1zm-3 .1zm-.3-.9zm-1.1-.2zm-.1 1.6zm.5 2.2zm1.8 .7zm-2.3 1.2zm-2.9-1zm-.9 .6zm-.1 1.2zm-1.8 .2zm-1.3-2.1zm-.5-.1zm1.4-1.5zm-2.1-1.2zm-.5 .4zm2.8-2.6zm-.6-1.2zm3.1 2zm1.2-.3zm-9.4-2.4zm-3.6-1.3zm.3 6.5zm-1.6 .5zm-.1 2.6zm-1 .6zm-1.7 .7zm0 .6zm-.6 .7zm0 0zm-.8 .7zm-.4 1.7zm-.3-.1zm.1 1.3zm-1.8-.2zm-1.5-2.3zm-.3-1.6zm.4-1.1zm3.2-2.4zm-.1-1.1zm-.1-.4zm1.5 .2zm-2.8-2.2zm.6-1.2zm-3.2 .4zm-.3 2zm1.3 .3zm5.5 10zm1.5 .8zm-.5 1.1zm2.4 1.1zm1-1.7zm1.7-1.3zm.8 .3zm1.8 .8zm1.4-.2zm-1.5-2.1zm-.3 5.3zm0 .3zm-7.3 .3zm1.9-5.9zm1.6 12.1zm2 8.2zm11.6 5.2zm-.7 3.8zm9.4-1.9zm.8-.6zm-.6 3.8zm.8 1.1zm7.3 7.8zm6.7 3.5zm10.3-24.9zm.5-3.2zm.2-.3zm-2.1-5.6zm.1-.4zm-.5-.5zm-.3-6.2zm1-2.2zm.3-.5zm1.6-1zm-.2-.3zm-.3-1.7zm0-1.5zm-.1-1.2zm-.4 0zm-.9-.8zm.6-1.9zm-.5-.4zm-.6-.5zm-.7-.3zm-1.3-1zm-1.4 1.3zm-.5 1.4zm-1.1-.5zm1.3 2.5zm.4 .2zm1.7 .7zm-.8 1.7zm.5 1.1zm.6 .1zm-1 1zm-1.3-.8zm-1.6-1.9zm-.5 .5zm.9-1.1zm-2.1-.5zm5.3-2.3zm2.1-5zm.7-.9zm-5.3-.8zm-2.2 2.9zm-5.8-2.3zm-3.4-2.3zm.2-2.4zm1.3-.3zm-2.8 .2zm6.5 .2zm1.4-9.2zm2.5-2.3zm1.7-2.4zm.4-.8zm-.9-1.5zm2.1-.1zm2.1 1.4zm.4-.1zm-1.8 1.2zm1.6 4.8zm9-4zm-.1-2zm-.9-.4zm2.7 1zm-19.5-5.2zm-7.3 1zm-2 4.4zm6.7 1.6zm0 1.7zm-10.2 5.6zm-3.2 2.6zm-.3 .6zm1 .1zm-14.5-1.3zm-5.7-7.5zm3.9-13.6zm12-3.4zm.2-3.1zm-1.3 .1zm7.6 3.5zm.8-3.9zm7.2-7.8zm10-.6zm9.6 1.4zm.7-20.1zm-8.3-2.8zm-3.4-3.4zm1.3-4.2zm2 .6zm-.2-4.6zm.1-.2zm.6-.8zm-.5-.5zm-.7-.1zm-.4 .2zm-1-.5zm.1 1.4zm.1 .1zm2.6-1.6zm2 1.6zm1.9 1.8zm-.5 .7zm4.1-3.5zm-.6-1.6zm.4-1.4zm-2 1.3zm-3-1.9zm-.3-.7zm-1.3-.1zm-1.2 1.1zm-1.4-.9zm.6-.6zm.3-.2zm-2.4-.2zm-1.8-.1zm-.1-1zm.8-.8zm.3-.3zm.1-1.1zm.4-.3zm-1.1-1zm.1-2.5zm1 .1zm3 .1zm.2 0zm.6 .2zm-1-2.3zm2.5-.5zm2.2-1.4zm-.2-.9zm1.1 1.9zm.1 1.5zm1.7-.5zm.4-3zm.4-.6zm-.1-2.1zm-1.7 .3zm-.6 .1zm-1.2-1.6zm-1.6 .2zm-.8-1.1zm1.8-1.5zm1.6 .6zm1.4 1.4zm-4.3 2.5zm-2.9 .5zm-2.4-2.1zm-1.2-2.1zm.6-.4zm-.9-.9zm2.3 .8zm.5 .4zm.5-.6zm-4.8 3.9zm0 .5zm-.9 .7zm-.6-.9zm-1.5-.3zm-1.3-1.6zm-2.8 .7zm.4 1.7zm1.1 .2zm1.1 1.6zm-1.6 1zm3.3 .3zm-1.9 3.2zm-.6 2.4zm.4 .3zm.3-.1zm.2 1.2zm.6 .5zm0 .5zm-.8 1.8zm-2.1-1.3zm-1.1 1zm-1.3 .4zm-1.1-.4zm-1.1 .5zm-.6-1zm0-.3zm.5-1.1zm.2-1zm-.3-.6zm.7-.7zm1.3-.3zm1.4-1.7zm-3.1-.3zm-2-1.2zm-.8-.5zm-.5-.6zm-.3-.4zm-.4-.1zm-.4 .1zm-.6-1.2zm-.2-1zm0-1.2zm-1.3-.3zm-.5-.2zm-.5-.6zm1-.7zm.8-.6zm-.1-.6zm-1.9 .2zm-1.6-.9zm-.4 .5zm-.4-.8zm1.2-.3zm-.2-1zm-1.3-1zm-1.2 .4zm-1.4 .2zm-.5 2.9zm-.5 .5zm1.8 .5zm.7-.7zm.7 1.1zm1.2 .7zm.7 .9zm.2 1.8zm.7-.2zm.7-.5zm.9 .2zm3.1-.8zm.7 .5zm1.1-.3zm0 1.1zm1.4-.7zm.1-.5zm.1 0zm-.3-.1zm.2-.5zm0-.3zm-.2-3.7zm1-.7zm-1.4-.8zm-.3-.4zm-.3-.5zm-.7 .6zm-1.3 .2zm-.6 .5zm-.5-1.4zm-2.7-1.6zm-.1 0zm8.9 1.9zm1.3 .8zm-.6 1.4zm.6-3.7zm.3-1.3zm1.7 0zm.1-3.4zm.8-1.1zm2.1 2.3zm2.9 .6zm-2.7 5zm-7.6-8.4zm-11.2 15.3zm.1 .5zm-.2 .5zm1 .3zm-.1 1.5zm-.5 .2zm-.2 .2zm-.3 .2zm.3 .2zm.7 1zm.8-.2zm.7 .3zm1.7 .2zm1.3-.1zm.3-.1zm-.1 .8zm.9-.1zm-.3 1.8zm.3 .5zm.1 .1zm-.8 1zm-.8 .2zm-.3 1.1zm.8 .5zm.3 .1zm.5-.3zm-1 1.4zm.8 1.4zm.9-.3zm.9-.7zm.6-.1zm.7 1zm1.9 .4zm-.2 3.4zm.4 .4zm1.2 .3zm-1.3 1.3zm-1 1.3zm-.5 .3zm-.7-.8zm-.4 0zm-.6-.8zm-.8-.1zm-.5 .6zm-1.1-.6zm-1.5 1.3zm-1.7 .1zm0 .3zm.2 .8zm.7 1.1zm0 1.1zm.3 .8zm.1 .3zm.5 .6zm-.4 .7zm.7 .4zm.9 1.1zm.8-2.7zm.8-2.9zm2.4-.2zm1 0zm.1 1zm-.4 .1zm1.2-.1zm-1.4 1.6zm3.1 1zm1-1.2zm.3-.7zm.2-1.4zm.9 .2zm.8 1.7zm-1.9-4zm.3-.5zm-.1-.1zm1.3-.3zm0-.7zm1.4 .1zm.6-.4zm.4 .7zm.3 0zm.7 .3zm1 .4zm-.9 .9zm.3 .6zm-.7-3.3zm-.1-.9zm-.8 .2zm.7-2zm2.9-1.1zm5.5-4zm1.6-.8zm2.9 1.9zm1 .8zm3.8 .2zm.5-1zm.5-2.2zm.1-1.5zm-.1-.5zm.6-.5zm.3-.5zm-.4-.6zm2.6 .6zm.1 .9zm1.5-.8zm1.3 2.5zm1.1 2.3zm-1.7 .3zm3.6 1.5zm0 1.5zm-8.3-.6zm1.2-4.5zm10.8-4.4zm10.3 17.2zm1.7 6.4zm4.2 5.8zm.6 1.1zm-52.1-5.5zm-1.3 .9zm-5.1 1.3zm-1.7 1.6zm-2.6-2zm-1.8-2.8zm-.4-.9zm-.3-.5zm-.4 1.1zm1.3-2zm-.7-1.8zm-.3 0zm-2.5-3.2zm.7-1zm0-.1zm1.1-1zm1.1-1.4zm.1-.8zm.7 .7zm.6-1.8zm.5-.5zm-1.4-1.1zm-1.8 .2zm-.3-.1zm-.9-1.1zm.6-1.4zm.6 0zm2.2 .1zm.3 .6zm.1 0zm.5-1zm-1.5-2zm.1-.4zm.6-.8zm.6 .5zm1.6-.9zm-3.6 .4zm-1.3 .2zm0 .5zm-1.9 .3zm-.2-.2zm.1-.5zm.1 1.9zm-1 .3zm-.5 .6zm-.4-.6zm-.7-.2zm.8-.7zm-.1-.4zm-1.1 2.5zm-.9 .3zm-1.1 .5zm-.1 1.7zm-.3 .6zm.1 .4zm1.3 .4zm.2 .9zm1.4 1.4zm.9-3.5zm.5-1.4zm-5.7-2.7zm.3-1.8zm-.9-.7zm-1.2-.6zm.5-1.3zm.9-.1zm1.2-1.6zm-.4-1.7zm.9-1.4zm-1.5-.4zm-1.3-1.5zm-.9 .2zm-.4 .2zm-2.4 1.5zm-1.1 .8zm-1.5 .2zm-.2-.9zm.3-.5zm-.8-.1zm-.2 .3zm-.6 .4zm-.2-.9zm-.6-.5zm-.1 1zm-.2 .9zm-1.4-.7zm-.5-.4zm-.8 1.1zm1-2.7zm-1.3-1.4zm-.7 .1zm-.8 .7zm.2 .3zm.1-3.1zm.2-2.3zm3-.7zm-.8 3.5zm1 .7zm2.1 .8zm1.9 1.7zm-1.2 4.3zm-2.2 .1zm.5 2.1zm0 .4zm-.9 .1zm-1 .9zm-.2 .8zm-.2 .8zm-1-.7zm-.5 1.3zm-.2 .4zm-.7 0zm2.8 .5zm.5 .8zm.2 1.3zm.3 .1zm-1-.1zm.4 1.7zm0 .1zm.4 1.2zm-.4 1.1zm-.3 .5zm.7 .6zm-2 0zm-.5-1.9zm-3.4 1.2zm-.7 1.4zm-1.2 .4zm-1-.2zm-1.3 .9zm-.7-.8zm1.9-2.2zm-.1-.6zm-1.3-.3zm-.2-1.2zm.1-.3zm.3-.3zm.4 .3zm-.7-2zm-.1-.9zm-2-.2zm-.9 .2zm-.1 0zm-1.4-.8zm-.5 .6zm-1 2.1zm-.9 1zm-.4 .8zm1.1 .2zm.3 1.1zm1.3-.1zm.8-1.2zm.1 0zm.7 1zm-.6 1.3zm2-3zm-2.5-1zm1.3-3.6zm-.8-.8zm-1.3-.8zm-.5 0zm.5-.9zm.7-1.1zm-2.3 1.4zm-1.4-2.5zm-3-1.4zm-1.1 4.6zm1.8 7.4zm-3 1zm3.8 3.4zm.8 2zm3.9 1.8zm.2 .3zm0 1zm-.6 .4zm1.1 1.1zm-.4 .9zm-1.6 .7zm.4 1.8zm-.7 2.2zm3.2-2.1zm.2-.1zm.5 .2zm.2-.7zm1.3 1zm0 .8zm-.2 2.5zm2.3 .4zm1.6-.5zm.9-1.6zm.3-.4zm2.4 1.5zm-3 2.6zm-1.6 2zm3 .6zm.5 2.1zm-.4 4.6zm-.3 .3zm-4.4-4.9zm9.3-2.1zm.4 .8zm1.2-3.3zm4.3-3.2zm.4-.2zm.1-.8zm2.7-2.8zm1-1.4zm.7-1.2zm-.3-.4zm.6-.1zm-.1-.5zm.4-.1zm0-.9zm-1.1 .7zm-1.6-.5zm-.5-.2zm.3-.7zm-.2-.4zm.2-.7zm.9 .4zm.5-.4zm.2 .4zm1-1.6zm-1.7-.3zm.2-.6zm-1.1-.4zm-.3 1.2zm-2.4-1.1zm0-.6zm-1 1.3zm.1 .3zm-.6 .5zm0 1.2zm.9 .6zm1.5 .7zm.8 1.5zm.8-.1zm0 1.8zm-3.4 .6zm-.6-.3zm-.6-.7zm-.4 .4zm.8-1.8zm-2.3-4.8zm-.1-.4zm.4 0zm-1.1-.5zm-.4 1.4zm-2.2 0zm-.6 .7zm-.2 1.6zm.9 1zm-2.1 .6zm-1.2 .9zm-1 .1zm-.1-.8zm-1.1 .3zm-1-2.2zm.1-.6zm0-.2zm-.4 .1zm-.3-.3zm-.5-.8zm-.4 1.6zm-.2 .4zm-.4-.3zm-1.2-.1zm-.4-.2zm.2-.5zm-1 .4zm-.1-1.9zm1.3 4.9zm5.9-3.5zm.9-.3zm.1 .1zm-1.4-1zm1.2-1.6zm-2.1-3.7zm-.5-3.5zm-.2-2.4zm.2-.4zm-.3-.5zm-.8-.3zm0-.1zm-.2 .9zm-1.1-1.1zm-.5-2.6zm3.3 .3zm.2 0zm0-2zm.9 0zm.9-.5zm.1 1.2zm1 1.4zm1-1.7zm-1.3-2zm-1.2 5.6zm7.9 1.7zm.9-.4zm0-.1zm.2 .4zm.4-.5zm1 .2zm1.5 1.2zm.4 1.4zm-.1 1.2zm-.3 0zm1.3 .1zm.6 .3zm0-1zm1-.3zm.3-1.2zm-.9-.5zm-.7 .1zm.8-.8zm-1-.6zm-.1-.9zm-.3-.4zm.3-.2zm.6 .3zm.8 .2zm-2.1-.1zm.5-3.4zm-.3-.1zm-.6-1.3zm-.2 .1zm4.1-6.7zm1.5 .5zm-2.9-1.5zm-.4-.3zm-1.1-.5zm.1-.3zm-1.8-1zm10.4 5.3zm-.8 1.6zm1.4 .6zm.2-.4zm.1-.1zm.8 .6zm1 .9zm-.9 1.9zm-1.2 .4zm-.8-1zm-.5 .2zm-.5 0zm3.6-4.5zm-.1-.1zm7.4 4.5zm2.8 2.3zm7.5 2.4zm4.8-2.9zm-11.3 11.6zm-1.4 .5zm-.7-.1zm-1-3.3zm-8.9 7zm-1 3.1zm.5 .4zm-1.1 .4zm-.6-1zm-1.3-.1zm-.8 .1zm0 1zm1.1 .5zm.1 0zm-.1 .8zm-.4 .2zm.4 .6zm-2.6 2.6zm.1 2zm6.1-1.2zm3.3 5.7zm2.9-.7zm-.3 5.7zm-9.6 11.4zm-13.5 2.5zm-11.4 9.7zm-6.9-47.4zm19.1-1.8zm.3-1zm.3 1.9zm1.8-2.4zm.8-.2zm.3 1.7zm.5 .1zm2.4 .6zm0 1.3zm1 .7zm.3 .1zm1.3-3.5zm2.5 6.4zm-10-10.4zm-1.1 1zm32.6 94.6zm.3 .3zm.9 .3zm-18.2 4zm127.9-12.2zm.7 .2zm1.6-.6zm.4-.1zm-.3-.5zm-.6-.8zm0-.3zm1.5-.4zm-3.3 1z"/>
<path class="ps" stroke="#7c1d6b" stroke-width="1.0" d="M305 499.7zm1.4 1zm1-.2zm.7-1.2zm-.3 3.1zm.3 .6zm-.7 .4zm2.2 .5zm2.4 1.7zm3.8-1.9zm-.7-1.8zm-1.5-.6zm-1.5-1.3zm-.5 .5zm.8-3.2zm3.3 1.9zm1.7-.3zm1.1-1.6zm.5 2.9zm1.1 1.6zm1.3-2.6zm2.8-2.2zm.4 .3zm2.1-1.3zm1.4-.6zm.6 1.7zm-1.2 .6zm2.7 0zm2.8 1.4zm2.1 .3zm.1 0zm-.7 1.3zm.3 .7zm-1.4 2.9zm-.2 1.6zm-2.5 1.9zm-2.3 2.3zm-1.7-1.8zm-2.6 .1zm.4 1.5zm-2.8-2.4zm6-3.1zm.1-.2zm1.6 .5zm1.3-3.9zm.1 0zm4.9-3.9zm-3.7-2.5zm.1-1zm2.2-2.2zm2.9 .2zm.2 .7zm1-.9zm.3-1.8zm1.1-.6zm-2.7-.9zm-1 .4zm-.2-1.6zm4.5-1.4zm-.2-1.1zm1.6-1.8zm2.9 3.6zm.7 .4zm2.1-.7zm3 1.7zm.8 .7zm3.7-.2zm.8-2.5zm2.8-.9zm2.9-2.1zm.9 .3zm.7 .5zm1.3-1.9zm-.9-1.5zm2.6 .5zm.6 2.8zm3 .1zm.8 .5zm-.3 4.3zm-1.1 1.6zm-.5 .5zm-.3 .3zm2.7 .9zm.2 .4zm-1.4 2.2zm0 .7zm-1.4 .5zm-.4 1.1zm.8 1.2zm1.7 1.8zm-1.8 2.4zm2.2 .8zm.9 .2zm1.3-.7zm2.1-2.7zm1-1.3zm-.4-1.2zm1 0zm1.1-.3zm.3-.6zm1.3 .9zm.5 .8zm-1.2 .6zm-.4 1.1zm-.2 .1zm.8 2.3zm.8 .9zm1-.8zm-.1-.6zm-.3-.2zm2.5-.3zm.6-.9zm.7 1.4zm1.2-1.2zm-.2-.3zm-2-2.6zm-1.6 .2zm2.6-2.1zm-3.1-1.3zm.3-3.6zm1.7-1.8zm.4-.1zm1.2-.2zm1.8-1.3zm2.9 .4zm.2-1.3zm2.7 1.9zm2.4-2.4zm.7-1zm.6-.1zm1 .7zm-.1-1.9zm-.6-.3zm1.8-1.3zm-1.1-1.8zm.3-.3zm1-.4zm.2-.9zm.7-.5zm2.7-.5zm3.9 1.1zm1.6 .9zm-1.2 1.2zm2.3 .5zm-.1 3.4zm-.5 1.2zm-.2 1.2zm.9 .1zm3.1-.8zm.8 .8zm.3 3.8zm1.9-.5zm.4 1.2zm-3.3 1.8zm1.3 1.7zm.8 2.3zm1.6 4.3zm-1.9 2.4zm-3-1.4zm-.6 .7zm0 .4zm-.7 2.6zm-.8 1.9zm.6 .3zm.1 1zm-2.1 .1zm-.3-.6zm-.1-.3zm-.8-1.3zm.6-.5zm-1.8 0zm.1-1.7zm-1.1-2.3zm1.3-1zm.4 .4zm.3-.9zm-2.8-1.1zm-1.3 .5zm2.8-2.9zm0-2zm-.3 0zm-.6-2.3zm1-3.6zm4.5 .6zm-.1 3zm-1.5 .3zm.2 1.6zm.4 2.2zm.9-.2zm-9.7-1.4zm-.8 .7zm-.3 1zm-1.4-1.7zm0-.2zm-.5-.7zm-.8 0zm.3-1.5zm0-2.9zm-.6-.6zm1.7-.4zm-3.4 1.8zm-2.7 3.1zm-3.4-2.2zm0-1.5zm-3.4-5.7zm-.9-3.2zm-1.6-4.6zm-.9-3.1zm-4.3 1zm-.8 .8zm-.6-.1zm.1-1.9zm-3.1 1.5zm-.7-.5zm-4.9 1.9zm-1.9 .3zm-3.3-1.8zm-.9 .3zm.4 .7zm-2.5-1.2zm-.9-1.3zm-.4-.3zm2.5-2.4zm2.4-1.8zm-4.1-4zm-3.7-1.2zm4.4-3.1zm6.7 .7zm3 1.4zm8.2 .6zm8.1 .5zm1.9 1.2zm6.1-1.4zm.3-.9zm4.4 .6zm1.3-1.3zm2.9-1.7zm.2-3.3zm3-.1zm0-1.2zm1.2 1.1zm-1.8-2.7zm.8-2.5zm-2 .1zm-1-2.6zm3.5-1zm3.8 1.8zm1.3 .1zm0 1.3zm.2 2.1zm-1.6-.1zm4.6-4.6zm-.2-.2zm1.9 1.6zm3.6 1.3zm-.2 2.4zm-.4 2zm2.1 1.1zm.6-3.7zm0-3.7zm1.9-2.5zm-.5-1.7zm-1.7-.5zm-.9 .2zm-1 1.7zm-.8-2.9zm-4-.7zm-4.6 2zm.5-6.1zm1.5-2.1zm-4.1-1.9zm2.5-8.6zm6.5 4.8zm3.5 2.3zm-3.5 3zm11.2-.8zm1.5 1.1zm-1.2 1.6zm1.2 2.6zm1.3-.2zm.3 .1zm-.2 .4zm.2 .7zm1-.5zm-3.6 .4zm-.6 4.3zm1 1.2zm2.8 .2zm1.7-.5zm1.2-.2zm.3 .9zm-1.8 1.8zm-1.9 .3zm1.9 5.6zm-2.5 6.4zm-1 .4zm.8 2.7zm6-3.1zm3.5-.9zm0 3zm6.3-4zm.4 9.1zm1.2 .3zm5 2.8zm.3 1zm-.3 1.3zm0 1.1zm-.8 .4zm-.8 1.3zm3.2-2.7zm-.3 6.5zm-2 1.3zm1.8 1.4zm-6.8-1.4zm-3.2 0zm-.1-.5zm-.1-.5zm-.9-1.6zm-3.3 .9zm-.2-1.6zm1.7 5.5zm1.4 1.8zm-3.4 0zm-.1 4zm.1 .2zm-.7-.2zm-.8 1zm-.4 .4zm-2.1 .2zm-.3 .7zm-.4-1.1zm-.9 .9zm.8-2.2zm-1-.4zm.8-1.9zm.1-2.1zm-2.4-.2zm-.1-1.3zm-1.4-.5zm-1.6-.5zm1.4 2.3zm.2 .3zm-3.1 1.3zm-.3 .3zm.1 .4zm.3 1.6zm.1 0zm.1 1.1zm.8 .2zm-4.1 .3zm-.7-1.3zm-.4 0zm-1.4 .1zm-.1-.5zm.4-1.4zm-2.3 1.9zm0-5.6zm-.7-2.4zm-4.7 .3zm-8.8 .5zm-.8-.3zm-2.1-.7zm-8.4 1.2zm-1.2-3.7zm-.8-.3zm-.1-1.5zm-1.8 .6zm.2 1.4zm-3.9-4.1zm7-1.8zm13.3-7.9zm.8 .3zm-8.9-9.8zm-.4-1.1zm-2-1.2zm.8-.9zm-1.2 3.4zm-7.5-3.6zm5.7-14.6zm-9.6-17zm-4.1-2.1zm.5-2zm-.6-.8zm-.9-2.7zm-1.5 .9zm-1.7-.2zm-.5 .7zm-.7-2.6zm1.3-1.4zm0-.6zm-2.3-.7zm-.1-2.1zm-.4-.6zm-.4-.6zm-.5-2.4zm-.4-3.3zm2.4-2.7zm-.1-3.8zm3.4-2.3zm3.6 .5zm.5 .6zm3 2.7zm2.6-.4zm-.4-2.4zm-.9 7.9zm-2.6-.2zm-2.6-1.8zm-2-1.5zm-.2-1.3zm-1 8.7zm.2 .2zm-1.6 2.5zm2.1 1.3zm.2 .2zm1.3-.5zm.5-.3zm1 1.7zm4.2 1.5zm-.1 1.1zm-.7 .5zm.1 1.1zm1.4 1.3zm.3 .4zm.6-2.6zm1-.2zm1.3-3.2zm1.5-.4zm-.6-1.7zm-.2-2.6zm-1.8-2.7zm5.4 4.3zm3.1-1.7zm-3.7 6zm0 2.1zm-15.3 6.6zm-6.8-.9zm-.7 .8zm-.9-2.3zm-.6-.4zm-.8-.7zm-.9-.9zm3.3-.4zm1.3 1.2zm-1.5-6zm-1.5-2zm-1.2-1.1zm-1.3 .3zm.8-2.8zm-3.8-.2zm-.6-.7zm-1.1 .4zm-1-2.5zm-1.2-.8zm-.1-2.8zm.9-.2zm-.9-1zm-1.4-1.7zm.7-.6zm1.6-.6zm0-1.7zm.6-.9zm2.3-.1zm.7 1zm-.1 .5zm-1.1 .3zm1.2 2.5zm1.1-.2zm2.3 .8zm.7-.5zm-6.4 .5zm-5-2.1zm-.8-.9zm-.6-1.3zm-.8 .7zm-1 1.1zm1.8 1.9zm.4-.4zm.1 1.7zm.1 2.1zm-.2 .1zm-.5-.1zm-.2 .4zm-.6 .5zm.4 .7zm.9 .7zm.2 3.1zm-1.1 .3zm0 .9zm-2-.6zm-1.6-2.2zm-2.6-2.3zm-.4-2.5zm-1.6-1.4zm.6-.8zm-1.7-.3zm-.7 1.4zm0 .4zm-.5 2.6zm.8 1.6zm-.1 .1zm1.5 .8zm-2.1 1.8zm.1 1.2zm1.1 2.1zm1 2zm.5 1.5zm.3 .6zm-.4 .1zm.2 1zm.8-.2zm.6-.1zm-.6 1.7zm0 2zm1.1 2.6zm2.7 .1zm2.2 .6zm.4 1.2zm-2 .6zm-.1 .4zm.8 2.3zm1.4-1.1zm1.4 2.7zm0 1.6zm-.2 2.5zm1.8 1.1zm.4 0zm-2.5 2.2zm-1.1-1.4zm-2.1 .2zm-.1 1.1zm-1.2 1.7zm2.3 .5zm-.9 3.2zm-1.6-7zm2.5-3.5zm-.7-.6zm.9-1.3zm-1.8-.7zm-2.4-.8zm-2.4-1.1zm-2.1 .6zm.2 1.9zm-2.2 .8zm-.8 1.7zm-1.8-4zm-1.8-2.5zm-1.4-.3zm-.9 .2zm-2-1.1zm-1.2 2.4zm-1 1.1zm2.1 2.9zm2.6-1.4zm1 1.8zm-2.2 7.2zm-5.3-.2zm0 2.4zm-2.4 .2zm0-1.3zm-.2-1.1zm-2.4-5.7zm-2.4-5.5zm-.4-.4zm-1.3 1zm-1.7-1.8zm-.4-.1zm-.6-1.6zm1.2-.4zm-2.3-.5zm-.5 0zm-.3 2.6zm-1.2 2.8zm-.7 1.2zm3 1.8zm-.2 2.5zm-6.5-4.3zm1.4-3.8zm-1.3-3.7zm4-2.8zm-.8-1.1zm-4.5-1.7zm-1.3 0zm2.1-3.8zm1.8 .3zm-.4-2zm1.3-.7zm-.5-2.2zm-3.9 1.8zm.4-5zm6.1 7.3zm2.1 2.1zm1.1 1.5zm.7-1zm1.2-.4zm-.1 1.5zm1.1-.2zm.8-.9zm-.3 2.8zm-2.6 .3zm1.2 2.4zm1.7 .7zm.5 1.1zm-1 .1zm6.4 2.4zm2.3-2.3zm.7 .4zm.9-1.5zm-.4-.2zm-.8-.6zm-.6-1.4zm-2.1-.2zm-.6-2.1zm1.1-1zm.5-.6zm.5 1.3zm-1.8-2.6zm2-.6zm1.2-3zm1.5-3.7zm1.7-.6zm.1 .8zm.9-2.4zm3.3-.6zm1.4-1.8zm2.5 .4zm.1 2zm1.1 1.4zm-1.5 5.4zm.8 .9zm.1 .1zm-.3 1.1zm0 3.4zm-1.3 .1zm-2.7 1.4zm-1.4 2zm.2 .5zm-1.4-.2zm3.1 .6zm.7-.2zm1.1 2.8zm.1 .2zm3.5 1.1zm1-.8zm2.8 .8zm3.3-5zm-.3-2.7zm.8-2.4zm.7-1zm-.6-.7zm-1.9-1.6zm-1.1-1.7zm-.3-.8zm3.8-6.3zm-1.2-2.3zm-.5-.2zm0-.2zm-.4-2.8zm-1.6 .1zm-2.7-.1zm-1.9-2.3zm-2.2 4.1zm-3.5-1zm-3.2-.5zm.3 2.3zm-3.8-1.5zm.5-2.7zm-.4-.2zm-4 4.1zm-1.1-.2zm.7 5.1zm1.9 .7zm1.7-1zm-5.1 4.5zm-1 .1zm-1.3-.4zm-2.6 0zm-.4-.6zm-.6 .6zm-1.3 .6zm.6 1.6zm-1.4 .4zm15.2 2.7zm3-.2zm1.9 2.2zm-1.8 .9zm1.6-6zm-1.3-1.7zm.5-.7zm.7 .2zm17.4 5.3zm1.1-.5zm.1 1.4zm-1.5 .6zm3 1.3zm-1 1.7zm1.6 .8zm.1 1.6zm.1 .5zm.5-.2zm1-.7zm.8-1.3zm2.4 .9zm1.3 2.9zm1.4-.3zm-3.1 1.4zm-2 0zm-.7-.7zm.1-.7zm0-.2zm-1.6 1.8zm1.1 .9zm.3 2.1zm-1.5 .5zm-1.7 .5zm5.8 .9zm1.9 .6zm1.7-1.2zm-1-2.5zm-2.3 5.5zm-.1 .4zm-.9-.1zm1.1 4.7zm2.2 18.8zm-3 2zm-8.5 .1zm-.2-.6zm-5.3 4.1zm-5.1-5.5zm-13 3.3zm7.7 9.2zm2.2 1.5zm4.2 10.8zm1 2zm3.3-2.1zm1.6 .1zm.3-4.7zm10.9 9.8zm5.4 4.9zm.8-.2zm.9 1zm4.8 .8zm1.4 .6zm-.3 3.2zm1.6 2.8zm-1.5 .8zm3.5-3.5zm2.1-3.7zm1.6-1.3zm-3.9-.3zm-15.5 3.1zm-.4 1.4zm-.5 1.3zm-1.9-1.1zm-3.1 .1zm.2 3.1zm-.7 .1zm-1.8 .3zm-.8 2.4zm1.1 2zm1.6-1.2zm2.6-.8zm2.3-.1zm1.3 .1zm.6 .3zm1 1.2zm2.9 .1zm-2.2 5.5zm-1-.5zm-.5 .2zm-.8-.4zm-2.3-2.7zm-1 1zm-.9 .4zm-.4-.3zm.7-1.5zm-.2 3.8zm1.5 3.1zm-.1 2.2zm.7 1.6zm.2 0zm.4-.1zm1.5-2.1zm.8-.2zm2.8 1.6zm-.2 .8zm0 1.9zm-.9 .2zm-3 .7zm.1 1.1zm-.3 2.4zm-1.2 2.1zm-2.6-1.2zm-1.4-.5zm-2.3-2zm1.7-2.1zm.8 .1zm2.4 1.3zm.4-.7zm-3.3-3.8zm-1.1-.9zm.2-1.1zm.8 0zm-1.9 1.8zm-1.2 1zm-.5 1.7zm-1.3 2.8zm-4.1 .7zm-.4 0zm-.3 1zm-1.7 1.5zm2.2-4.2zm1.7-3.4zm.3-.8zm-3.4-1.5zm-1.9-.1zm-1.2-1.3zm-.7-.3zm.2 2.8zm.4 0zm-.5 1.8zm-1.3 .4zm.8 1.2zm-4.4 .4zm-.5 0zm-2 .1zm-1-1zm-1.6 0zm2-1.7zm2.6-2.3zm.7-.5zm1.6-2.1zm-1.6-.7zm2-1.1zm5.2-3.9zm1.1-1.4zm1.5-1.9zm.2-.2zm.8-1zm.6 .2zm.9 1.6zm-.4 2.9zm.2 2.4zm2.4-.7zm0 1.7zm1.7 1zm-1 1.2zm1.2 1.5zm-.2-6.9zm-1.6-.7zm-5.1 3.9zm-3.6-6.6zm.6-1.6zm1.4-1.2zm3.1-.4zm-.1-3.4zm-2.5-.8zm-4.7 1.6zm-10.9-5zm-2.3-.6zm-1.1-2.8zm-2.7-5zm-1.5-.1zm-2.1 3zm7.7-5.2zm7 2zm-8.1 13.2zm-3.7 .7zm-.4 .1zm-2.4-1.2zm-4.8 1.3zm-.9-.5zm-.7-1.3zm-3.9 .1zm-2.6 4.1zm4.5 15.9zm12.8 3.2zm2.2-1zm.9-.4zm7.5 4zm.1 5.4zm.4 2.7zm17.6-2.2zm.3-3.2zm11.5-1.1zm2.4-2.7zm.9-2zm.5 .3zm2.7 2.2zm3.3 2.4zm-1.8 2.7zm-1.4 .3zm-2.5-.1zm-2.5 .3zm11.9-5.2zm1.7-2.5zm.6-.7zm1.9 .6zm.4-1.1zm.7-1.8zm-1.8-1.9zm-1.9 .9zm-3.9-1.1zm-1.3 1zm.9-3.2zm.9-2.8zm2-1zm1.5 1zm1.8 1.5zm1.1-.8zm2.3 3.9zm2.7 2zm0 2.3zm-1.8 3.2zm-.5 .7zm-.7-.3zm0 .9zm-.2 1.7zm-.2 1.5zm-2.1-2.3zm.7-1zm-1.1-.4zm-.9 1.7zm-1 1.8zm4.5 4.5zm2.3-1.8zm1.2-.3zm1.8 .6zm-.3 2.2zm1.7 3.4zm-4.7 0zm.6 6.8zm9.7-12.9zm-.6-.9zm4-4.1zm-.2-1.2zm.9-.4zm2-.7zm.4 1zm.4 .5zm.2 .1zm1 .9zm.5-1.2zm.1-3.6zm.7-.9zm.1-1.9zm-1.3-1zm-1 0zm-.3 2.3zm-.9 1zm-1.1 1.5zm-1.5-.8zm-.8-2.2zm-.7-.9zm-1 3.3zm-.6 1.4zm-2.5-.2zm-.4-.2zm-1.1 .5zm.9-1.8zm1.1-.4zm-.9-3.9zm1.7-1.6zm3-.9zm.1-1.2zm-.3-.8zm-1.1-2.6zm-2.2 .5zm-.4-1.2zm-.8-1.4zm-.2-1.3zm1.4-.8zm-3.2 1.7zm-.4 1.9zm1.6 .1zm-4.8 2.9zm-1.5 12.2zm.7 .2zm2.4 1.9zm.7 1.1zm15.7 2.1zm0 .2zm.2-.7zm1.5 .8zm-2.8 4.3zm6.1-9.7zm2.7 .5zm1.7 .4zm2.1-.5zm.6-1.2zm-1.4-.2zm1.3-1.5zm.3-.2zm.3 0zm1-.6zm.8 1.1zm0 2.4zm-1.5 1.5zm-1.9 1.6zm-.3 1.3zm-2.9-7.1zm-2.6-1.8zm-.7-.9zm.8-.6zm.7-1.4zm-.5-1.9zm3.3 .6zm-.1 .7zm.7 .5zm2 .8zm.7 .8zm.9 .5zm2.2 0zm3.4-1.1zm1.9-2.5zm-.9-.6zm.8-1.5zm.4-.7zm.8 .6zm.3 .2zm1.2-1.5zm-.3-1.3zm1.7-1.1zm1.3 .9zm1 1zm0 2.6zm1.2 .8zm-.1 1.1zm1.9 .2zm.4-.6zm.5 0zm-1.9-1.9zm4.6 1.6zm-4 4zm-.7 1.3zm-1-1.5zm-2.2 .4zm.7 2zm.3-.1zm.2 2.5zm-4.1-1.7zm-2.3-1zm-.3 .6zm-1 1.2zm1 1.2zm2.7-6.2zm-.2-1.2zm1.2 0zm-4.1-5.2zm-1.6 1.7zm-2.3-2.1zm-2.6-1.2zm-.4 1.1zm.2-4.3zm3.7-1.8zm.3-3.3zm7.9 .9zm.7 2zm.1 .9zm1.2 .2zm1.7-.3zm-.3-2.4zm-1.5 .6zm-2.3-13.2zm-.3-.4zm2.3-.3zm-8.7 2.6zm19.7-8.2zm-28.3-20.4zm17.8-20.6zm-2.1-2zm4.4-3.2zm1.6-3.2zm1.2-1.7zm1.9-.7zm1.1-.6zm-.1-.6zm-.4 2.7zm.3 1.3zm3.1 .7zm3.1-3.9zm-8-7zm-2.1 16.9zm-.7 1.2zm1 1.1zm0 .3zm1.8-1.5zm37.4 61.9zm2.1 .1zm-62.1 15.1zm-6.1 1.1zm-.5-.1zm-2 .1zm.1 1.2zm-.1-3.3zm-31.8 1.2zm-4.3-6.1zm-1.8 1.1zm-1.5 .1zm0 1.2zm-2.5-.3zm.2-2.2zm2.5-.1zm1-2.1zm-11.3 30.5zm-18.3-100.6zm19.7-24.5zm-2.3-2.1zm5.4 1.6zm2.5 1.9zm-9.2-18.6zm.6-3zm-1.6-.4zm-1.4 1zm-5.3 .7zm-1.6-5.9zm16.5 4.2zm1.5-1.6z"/>
<path class="ps" stroke="#9e2b62" stroke-width="1.0" d="M306.4 414.5zm1.4 .7zm-.5 1.9zm3.9 1.8zm3.6 3.3zm1.3-2zm3.1-1.2zm3 1.3zm2 .1zm.4-.1zm-.3 1.5zm2-.6zm.1-3.3zm1.8-.3zm-.1-2.3zm-.2-.3zm-2.1-1.5zm-.7-1.3zm-2.4-.1zm-.5 .4zm-1.6 1zm-2.9-1.5zm-1.1-.4zm.3 2zm0 1zm-.9-.3zm-2.5-1zm1.5-4.9zm-1.8-1zm-2.7-.8zm-3.6-1.3zm-.3 3.9zm9.2-3.7zm.2-3.5zm3.5 4.7zm2.1 .2zm-1.2 2.8zm5.5-.9zm1.5 .7zm2-.6zm2.1-.3zm0-2.5zm-.6-.7zm.2-.6zm1.5 .7zm.6-2.9zm-.9-.1zm1.2-1.3zm-.7-2.2zm-.7 .3zm-.9 1zm1.2-2.4zm.7 0zm-1.5-4.2zm-.8-.5zm-1.4 .2zm-.7 .2zm-3 5.7zm-1.3 1.1zm.6 3.9zm-.1 .4zm.2 .3zm.8-.9zm3.7-1.3zm6.9 .4zm.2 1.1zm3.4-1.9zm.8 2.5zm2.3 .3zm.4 .5zm2.1 1.7zm1.1 .9zm1 .1zm.9 .8zm.9-.9zm-.1-.8zm1.5-.5zm.6-.5zm-.2 2zm1.9 2.7zm2.6-.2zm.3-1.5zm.1-.8zm1.2-1.4zm1.7 2.3zm.4 .7zm-1.2 1zm-.5-1.1zm2.9 1.3zm5.2-1.9zm1.5-2.7zm4.3 2.7zm.8-1.9zm1.2 .7zm.6 .1zm0 1.9zm1.9-.6zm2-1.1zm1.7 1.7zm-5.7 4.6zm-.7 2.6zm1 1.3zm5.1 1.7zm-2.5 3.6zm1.8 4.5zm2.9-.8zm4.6-13.7zm2.4-4.8zm2.6-.4zm-4.6-4.5zm-5.1-4.4zm-3.1 .2zm1-4.7zm-2.7-.5zm-.3-1zm.1-.2zm.1-.6zm-1.3 1.7zm-1-1.6zm-4.5 2.2zm-.8-1.1zm-2.2-2.2zm-.9-2.1zm-2.1 1zm-.7 2.4zm.8 1.2zm.4 .1zm.9 .9zm.6-.1zm.9 1.6zm-1 2.1zm-1.4 .4zm0 .4zm-2.5-.5zm-1.3-2.6zm-1.4-2.1zm1-1zm-1.6-1.1zm-.5 .5zm.6-1.3zm-3.3-.9zm-.8 .2zm-3-.5zm-2.3-.9zm-1.3 .5zm4.6-2.8zm-1.1 7.4zm2.5 .2zm-1.6 2.4zm-2 .5zm-2.5-.4zm.1-1.3zm-5.1-.1zm-.8-.7zm.2 4.2zm.8 .3zm.2 1zm.4 .2zm-1.1 .1zm-1.6 6.1zm1.2 1.1zm-.7 .6zm-.7 .2zm2.6 1.6zm2.4 1.2zm-.1 1.4zm-1.8 .1zm-2.1 2.1zm-3.7 2zm1.5 3.1zm0 .6zm-.6 2zm-1.1 .6zm-1.1-1zm-.4 .7zm2 1.8zm.1 1.4zm1.2 1.5zm1.3-1.4zm-5.6-.6zm-.6 1.3zm-3.2-3.2zm-1.3-.9zm2.2-2zm.8 1.2zm-.2-2.9zm-2.4 .1zm.8-2.7zm1.4-1.8zm-2.7-2.6zm1.1-1.9zm1.8 .2zm3.2 1.2zm-.7 7.7zm9-.4zm2.2-.9zm.3 .8zm.7-1.1zm.8 1.4zm2.7 .7zm1.4 2.1zm-1 .5zm.1 1.3zm.4 1zm-2.4-.5zm4.7-2.2zm4.3-1.4zm1.4 .6zm1.6 2.5zm-1.5 2.2zm4.3-2.5zm1.2-5.8zm3-1zm-.5-4.7zm4.8-9.6zm6.4-10.9zm-.4-.9zm9.2 4.7zm-30.6 3.4zm-1.6 1zm-1.3 .4zm.6 1.5zm.2 2zm-3.9-2.1zm2.4-3.3zm-8.1 10.3zm-.2 .3zm1.8 3.1zm1.5-1.1zm1.2 2.7zm-.1 .3zm-1.4 1.4zm1.7 1.2zm-4.3 .8zm10.5-2.4zm.2 .4zm2.7 3.1zm-5.4 8.8zm-.7 2.3zm-2.5 2.1zm6.6-1.1zm-13.3 1.4zm-4.3 1zm-13.1 3.3zm-2.7 .9zm1.9 3.1zm-2.5-9.8zm.3-2.7zm-.8-2.3zm1.4-.3zm-3.7-1.8zm-.2-.4zm-2.7-.6zm-4.3 1.5zm-2.7 2.5zm7.3 1zm23.4 25.1zm9.7 19.4zm-1.7 3.4zm-2.3 1.4zm-4.3 6.3zm-4.2-2.7zm-2.2-2.4zm-1.3 6.4zm-4.8-1.9zm-3.9 2.1zm-3.9-.9zm-.6 .6zm-.5 5.1zm-2.7 .6zm-1.3 1.1zm2.1 1.6zm1 .8zm.5-.3zm1.2 1.7zm3.2-2.7zm1.3 3.7zm-.4 1.8zm2.3 .1zm-2.1 2.4zm-2.6-.7zm3.6 4zm-.9 3.7zm1.9 2.4zm-4.8 4.9zm-3.4-5.6zm.6-4.7zm-3.9-5.3zm-3.4-3.8zm-1.7-2.7zm-4.2 1.3zm3.5 9.9zm1 2.3zm-4.7 5.5zm24.2-8.4zm.2-5.2zm1.8-.4zm1.1-2.3zm-3.5-.7zm6.8-2.1zm5.6-.6zm4.5 .8zm3.6 3.4zm-1.1 1.7zm-3.7 .3zm-2.7 .5zm-2.9 3.3zm-3.4 2.4zm.1 2zm-.1-7zm5.1 12.5zm2.5 1zm-1.3 5.4zm7.2-2zm1.7 1.1zm2 2.1zm3.6-4.7zm.4-.2zm0-1.2zm3.1 0zm1.9 1.2zm3.6-4.4zm-5.4-2.9zm-1.2-.9zm-.4 .1zm-.2 .8zm-4.1 3.4zm-2.1 1zm-2.5 1.9zm-1.5-3.8zm7.5-8.4zm2.6-2.3zm-.3-1.2zm-3.3-2.1zm6.3 4.8zm2.2 1.9zm5.7-9zm-2.9-3zm1.1-1.6zm3.7-.5zm-1.9-3.9zm-6.1-3.4zm-.9-.4zm.1-.5zm-3.4-1.2zm.8-2.8zm1.5 .3zm-1-3.1zm-5.5 2.9zm1.3-8.3zm11.1 7.7zm.6 1.4zm4.2-.9zm1-.5zm.2 2.2zm1.5 .6zm4 .3zm4.9-2.7zm1.2 2.1zm4.8 1.1zm-.3 1zm1.9-.2zm-1.6-4zm-9-2.6zm.4 11.6zm1.2 1.4zm-4.1 1.4zm-1.4 .1zm.6 4zm-.6 2.5zm1.3 2.3zm2.8 .7zm.4 2.6zm-2.3 1.6zm-2.5-.6zm-.7 1.9zm-1.1-.6zm-.2-2.9zm-.7-2.1zm7.6-5.3zm10.7-2.2zm2.5 .9zm.4 2.2zm1.1 3.4zm-2.9 .2zm5.9 .2zm.2 3.9zm3.3 .7zm-.1 1.9zm2 3.4zm2.5-2.7zm2.1 .4zm-.6-2.7zm2.8 4.4zm.1 .6zm3.3 2.5zm1.7 2.4zm-1 1.2zm2.1 0zm-2.9 3.9zm-1.5-1.5zm2.6 3.9zm-8-5.1zm1.4-3.8zm6.7-5.3zm.8 .8zm2.5 .1zm1.6 2.2zm1.7-2.5zm1.6 .3zm.8 .4zm-.6-1.7zm-1.5-1.1zm-1.2-4.6zm-1.3-2.2zm-2.3 .8zm-.7 2.9zm-2.4 1zm2 1.7zm-5.8-7.5zm-.1-.4zm-1.8-2.1zm2.6-3zm2.9 2.7zm3.4-2zm-.1-4.4zm-2.9-3zm2-1.4zm-5.3-2.4zm-5.9-2.5zm-4.4 5.9zm1.1 2.2zm2.9 2.4zm-.9 2.4zm-3.2 3.2zm-3.2-2.2zm-.4-.7zm-1.9-5zm-2.3 1.5zm5.1-6.6zm4.9 17.6zm-4.9 6.5zm.2 2.4zm-1.4 0zm-2 .2zm.2 .9zm-.4-2.4zm.3-1.5zm-1.6 0zm-.6 .8zm2.9 5.5zm.1 .6zm-1.4 3.8zm-.4 2.7zm-1.2-.3zm-1.1 .8zm-1.4 1.7zm-.5-4.4zm-2 .6zm-3-.8zm-1.2 1.1zm-.2 2.3zm-2.4 3.1zm-2.7 .7zm-5.3-.3zm-3.9-2zm.9-4.1zm7.7-1.3zm0-1.5zm5.3-2.3zm.7 .1zm-.2 2.1zm-4.2-6.9zm.7-2zm6.4 .2zm12 11.5zm1 .3zm.3-1.4zm-2.6 3.8zm5.9 8.6zm3.4-1.3zm.3-2zm-17.8 3.2zm1.9 6.4zm-28.4-10.1zm-8.7 14.8zm-4.1-1.2zm-2.4 3zm1.9 2.4zm14-52.9zm-1.1-.7zm-8.4-3.3zm-1.1 1.1zm-4.1 0zm-29.6-11.9zm68-16.8zm3.7 2.9zm1.1-1.5zm2.5-5.2zm.7-.2zm2.1 2.8zm1.7 2.5zm1.9-3.4zm1.3-2zm.3-1.9zm-1.4-2.7zm4.8 4.6zm2.3 .3zm5.9-4.7zm3.3 1.4zm1.4-5.4zm.9 .1zm1.4-1.8zm.8-5zm3.6-1.5zm3.3 4.5zm.3 .6zm3.5-2.7zm1.5-4zm1.6-3.2zm2.9-6.4zm-2.6-1.5zm2.6-1.6zm2.8 0zm-1.3-2.4zm4.7 3.1zm-12.8 23.6zm-1 2zm-1.4 .4zm-3.5-1.7zm0-2.2zm7.4 8.7zm3.4 10.4zm1.1 17zm4 2.4zm4.9-2.2zm-14.4 7.9zm-3.8 1zm-3.1-1.2zm.4-1.4zm3.2-1zm.1-2.4zm-2.2-2.4zm.5-.4zm-4.4 .6zm1.5 11.3zm1.5 4.1zm.3 2.8zm2.7-2.6zm6.2 7.4zm-.1 2.2zm.2 1.6zm-.3 2.6zm-2.1-1.4zm-.3 .4zm-6.7-.6zm-2.5-.1zm15.1-7.9zm37.4-7.3zm-64-58.6zm0-.2zm-1.1-.4z"/>
<path class="ps" stroke="#bf3a51" stroke-width="1.0" d="M307.3 414.8zm1 2.4zm5.5-.7zm.9-2.1zm3.3-.5zm.3-1.6zm-.2-.5zm1.2 1.1zm1 1.7zm.2 .9zm.3 .4zm.6-.6zm1.9-2.9zm2 1.8zm1-2zm1.1 .4zm2.2 1.2zm.4 3.5zm-1 .4zm2.4 .5zm.3-.8zm-5.4 2.7zm-.2 1.8zm-3.2-1.7zm-.5-.8zm-.5 2zm-.6 1.7zm-.5 .1zm-1.8-1.4zm-2.9-1zm-.3-11.5zm-2.8-2.8zm4.2-1.7zm-7.6-1.3zm15.4 6.4zm5-.9zm1.4-1.9zm0-.8zm-.6-2zm-1.6-1.3zm-1.7-1.8zm.1-.9zm-1.4-.1zm2.7-1.6zm3.9 2.4zm1 1.6zm.6 .1zm3.8 2.4zm.3 0zm1.1 0zm.9-.2zm.4 1.6zm-.9 1.9zm3.3 .1zm.6-.3zm-.1-1.4zm2.1 0zm.1-3.4zm1-.6zm-.1-.3zm.4 1zm1.8-2.9zm.3-.4zm2 .1zm3.1-1.1zm1.8 .3zm1.1 1.5zm1.4-.7zm.6-1.6zm-1.7 4.6zm-3.4-1.1zm-2.7 1.8zm-1.3 3zm.3 1.4zm-1.9 2.1zm-1.5 .7zm-.2-.7zm2.9 1.6zm-3.5 2.4zm-2.3-1.8zm-.5 .4zm.2 4.3zm.1 .7zm2 2.7zm4 3.5zm.7-.9zm1.4-.3zm-.5-1zm1-.8zm-.1-1.6zm-.3-2zm-1.3 .5zm1.9-2.6zm-.1-.2zm2.6 2.7zm2.4-3.5zm2.8 1zm1.9 .6zm1-1.2zm1.1-1.3zm2 2.2zm.7-.2zm-2.8 4.2zm-1.7-1.1zm-.3 1.6zm-2.6 3.8zm-1.5 .1zm-4.2-.6zm-2.4 1.6zm-.6-.3zm-11.4-.6zm-2.8-.5zm-.4 .1zm.7-1.6zm.5-.6zm.5-3.6zm.5-1.8zm.4-3.6zm2.5-11.1zm-4.3-6.4zm1.7-.9zm-.5-2.8zm-3.4 1.8zm-1.2 1.6zm-1.3-.6zm-3.6-3zm-1.8 2.4zm.2 .3zm23.5 .9zm.8-.5zm1.7 2.6zm1.5-.9zm2.3-2.3zm.9-2.6zm3 1.5zm5-4.5zm-.7 12.6zm-.4 .8zm-1 4.2zm.8 .2zm1.8-.1zm7 3.5zm3.4 7.7zm-19.1-7.1zm.4-2.3zm-1.4 0zm-.4-.2zm-2.2 .2zm1.1 2.2zm-2-21.1zm-19.2 34.2z"/>
<path class="ps" stroke="#db4f3c" stroke-width="1.0" d="M312 405.9zm3.3-1.1zm1.5 .8zm-.8 3zm1.5 1.1zm1.1 1zm1.1-.4zm1.1 .1zm0-1.5zm-1.4-1zm3.3 2.7zm-.6 1.8zm-1.7 2.4zm-3.3-1.8zm-2.4-2.3zm4.7-8.4zm4.2 .2zm2.3 2.1zm3.4-4.2zm2.2-2.6zm.9-1.4zm2.1-3.2zm3.2 1.7zm.9-2.3zm2.7 2.6zm3.1 1.3zm3.6-1zm2.7 1.8zm.9-.6zm1.7-1zm.3-1zm1.8 1.2zm.4 2.4zm.9 1.1zm-1 .9zm-.9 .1zm-.2-.6zm-1.4 .9zm2.1 3.3zm-.8 3.2zm.3 .2zm-.6 1.5zm0 1.5zm1.3-.5zm-4.3-1.5zm-3 .4zm-.5 .5zm-.7-2zm1.6-5zm.8-.4zm2.5 2.9zm8 1.5zm.7 1.2zm-.7-4.7zm1.5-.8zm1.5 10zm-1.3 4.4zm-3.6 1.2zm-1.5-2.8zm-2.7 3.8zm-3.1-1.5zm.2-1.9zm.6 .1zm.1-1.1zm-6.7 .9zm-.7-2zm-3.3 1.7zm2.3 3zm2 .7zm-6.2 3.6zm-.1 .2zm0 .3zm-2.8-3.9zm-4.5-.3zm-1.9-1.4zm-1 .7zm-3.2 2.2zm-.3-6.2zm1.1-3zm2.4-1.2zm.6 1.9zm6.5 .4zm1.4 .3zm1.7-3zm1.3-.5zm.4-.5zm-5.3-1.9zm-3.4-.8zm-3.9-11.4zm15.2 7.2zm8.9-8.9z"/>
<path class="ps" stroke="#ee6f21" stroke-width="1.0" d="M318.7 408.2zm2-2.5zm6.8-1.4zm1.8-.5zm.7 2zm-2.2 1zm.6 1.2zm2.1 .4zm-.4 3.1zm.4 1.2zm-2.4-2.1zm-5.1 1.9zm-2.9 .8zm5 3zm10.5-3.7zm.4 .3zm-.3-1zm-.8-2.1zm2.5-.6zm1 .1zm1.4 .6zm-1.7-3.2zm-.5-.4zm-3.2-1.6zm-1-3.8zm-1.6-2.4zm-1.6 1zm.3 2.4zm5.4-5.1zm5.7 .4zm.7-.6zm-1.8 5.1zm5 7.3zm1.5 1.7zm2.6 1.3zm1.7-2.7zm.5-3.1zm-2.7 .3zm5.4-1.2zm.5 3.7zm0 1.3zm.2 .4zm-.2 .7zm1.6-.5zm2.9-.1zm-.7-8.9zm-2.2-1.3zm-1.8-.2zm0 .9zm-1.5-.6zm1.6-1.3z"/>
<path class="ps" stroke="#f89310" stroke-width="1.0" d="M327.2 410.2zm.7 .6zm.6 .8zm.5 .3zm.4-.3zm.2-4.7zm.2-2.6zm7.1 .6zm3.6-6.2zm2.1 .7zm1.9 6.9zm1.3 1.6zm1.2-.4zm1.3 .6zm-2.6 1.8zm4.2 1.4zm-13.1 1.5zm0 2.8z"/>
<path class="ps" stroke="#f9bb24" stroke-width="1.0" d="M329.5 411.1zm2.3-5.3zm8-.3zm-1.2 4.7zm8.7-6.5z"/>
<path class="ps" stroke="#020109" stroke-width="1.0" d="M303.4 706zm2.2 1zm0 1.1zm-.5-.1zm-.4 .3zm.4 .4zm.8 .7zm.9-.7zm.9-1.3zm1.1-.2zm1.3-.6zm.2-.7zm1.9 0zm.4-.6zm-.6-.4zm1.5 .9zm-.3 1.7zm.6 1zm.5-.2zm-1.3 1.4zm-1.1 1zm-.4 .9zm-.9 0zm-.4-.7zm-.1-.1zm.1-1.8zm.5-.9zm-2.6 3zm2.3 1.7zm.6-.4zm.1 .2zm1.4 .3zm-.2 5zm.7 .2zm-2.1 .9zm-.2-.4zm-.5 1zm-1.1-2.9zm-.6 .3zm9.9-3.7zm.6 .1zm1.4 1.1zm1.8-1.3zm.7-2.1zm.2-.2zm.3 .1zm-2.1-.4zm-1-.7zm-.4 .9zm-2.2-1.8zm1.3-1.4zm-.5-.8zm-.1-1.1zm-2.8-1.4zm-1.2-.2zm-.1-.3zm.5-.5zm.3-1.4zm1-2.7zm-1.4-.4zm1.6-1.9zm2 .9zm1.7-1zm.1-.4zm.4 .3zm.8 .1zm1.2 .3zm1.1-.5zm1.2 .4zm.1-.4zm.3-1.9zm.8-2.1zm1.2-.3zm2.6 .6zm3.2 1.4zm.9 .3zm.6-.2zm.5 .8zm.8 1zm-1.8 .8zm-1.3-1.2zm-1.7 2.5zm-.1 .7zm.2 1.1zm.7 .2zm.4-.7zm-2.1 1zm.4 .6zm-.5 .5zm-.8-.8zm-.1-.1zm-.4 1.9zm.6 1.1zm-1.2 .1zm.2 .7zm-.4 .6zm-.8-.9zm.1-.6zm-.8-1zm.3-.3zm.2-2.2zm-.1-2.2zm.5-.7zm2.3 .9zm2 4.2zm.2-.1zm-.5 .5zm.6 .4zm.4-.4zm.2 .1zm1.5-.6zm.3-.3zm.1-.5zm-.3-.1zm-.3 .4zm.3 2.6zm.6 .4zm-.2 .5zm.3 .2zm.9-1.7zm.5 .2zm1.7-2.3zm.7-.5zm.3-1zm-.7 0zm.8-1.5zm1.1 1.5zm.6 1zm.1 1zm1.5 .4zm1 .1zm1.7 2.2zm-.2 .9zm.8-.2zm.9 1.3zm1.5-1zm.4 1.1zm.7-1.8zm-1.3-1.2zm-.6 .5zm1-1.2zm1.1-.4zm-.6-.8zm-1.5 0zm-.3-.1zm-1.9-1.7zm-1-2zm-.9-.5zm-.5-.6zm-.3 1.3zm1.8-1.6zm1.3-.9zm1.5-1.4zm1.6 .5zm-.2 1.3zm1.6-1.3zm-.2-1.1zm1.5 0zm1.6 .7zm.5 .9zm.6 1.7zm1.5 .4zm.3 .4zm.5-.1zm.9 .1zm.6-1.2zm1.4 .8zm1.5-.6zm1.8 .4zm1.2 .1zm.8 .5zm1 1.3zm-1.3 2.2zm-.6 1.1zm-.4 .2zm1.6 1.3zm1.5-.4zm1.5-.5zm1.6 .3zm-.2 1.2zm-.7 1.2zm-2.1 .6zm.3 .9zm-1.3-1.1zm-1.9 .9zm-.6-1.5zm-.6-.2zm-.5-.8zm-.4 .2zm-.8 .7zm-.3-1.8zm.9-1.8zm-.3-3zm-2.1 .6zm-.9-.4zm-.6 1zm-1.2 .3zm-1.8 1.1zm-.3 .1zm2.2 1zm.1 1.1zm.9 .8zm.5 .5zm.3 1.3zm.5 .3zm-.1 .2zm.4 .5zm.4-.4zm.2 0zm-.3 1.3zm-1.5 0zm-1.2 .3zm-.6-.3zm.1-2.2zm-4.1-1.4zm-1-.5zm.3 2zm-.4 2.5zm-2 .5zm-.1 1.3zm.5 .4zm2.1 .7zm1.4 1.1zm-.6 .9zm-.1 .1zm.2 .8zm-1-.2zm2.3 .7zm.2-.3zm.8 1.5zm1.3 1.4zm-1.3 1.7zm-1.3 .2zm-.4-.1zm-.9 .2zm-.5-2.2zm.7-.8zm-1.8 0zm-1.5 1.5zm-.3 .6zm-.5-.1zm-2.3-.5zm-.8 .1zm.3 1.2zm.7 .5zm-.3 1zm2.1 .6zm1.3 .9zm-.4 1.6zm-.4 .2zm-.4 .5zm-.4-.1zm.4-1zm0 2.1zm-1.5 1.9zm3.6-3.3zm.6 .2zm.3-.5zm.2 1.3zm.6 .6zm.1 2.5zm-.5 2.3zm-.4 .1zm5.1-2.4zm-.9-3.8zm1.3-1.6zm-.1-.1zm.6-1.1zm-1-.7zm-.6 .3zm-.1-.3zm-.9 1.4zm-1.3-.5zm4.9 2.5zm.7-1.5zm1.6 1.1zm1.7 .6zm-.4 .8zm-2.2 .2zm-.5-4.9zm2-.7zm.2 .2zm.5 .6zm1-1.1zm-.5-1zm-.5-.3zm1.6-.1zm0-.2zm.1-.2zm0-.9zm0-.9zm-.3-.3zm-.3-.5zm-.5 1.3zm-1.2-1.1zm-.5 .4zm-1.3-.5zm-.1-.1zm.9 2zm-.3 1zm-3.3-3.7zm-.2 0zm-.2-.5zm-.3-1.7zm-.6-.8zm-.6-.6zm-.6-.4zm-.6-.9zm4.9 .8zm3.6 .1zm0 .6zm1 .3zm.6-.2zm.5 1zm.4 0zm1.4-.1zm0-.2zm1.5 1.2zm.3 .4zm1 .9zm.6 1.2zm.7 2zm.6 .1zm-2.1 1zm-.6 .6zm-.5 1.2zm-.3 .4zm.7 .4zm.9 1zm.2 .3zm.1 .4zm-1.3-.3zm2.4-.9zm.1-1.4zm2.1 .7zm1.7-1.7zm.1-1zm.4-.5zm-1.3-.1zm2.6 .4zm1.2-.5zm1.4 .5zm.3 1zm.7 1.2zm-.1 .5zm-.9 .1zm-1-.7zm-2.3-.3zm2.9 3zm1.2 .6zm.2-1.8zm.8-1.1zm.9 .6zm.4 .6zm.2-1.4zm.7 0zm.6 .4zm1.2 1zm1.1 .2zm1-.4zm.5 .8zm.6-1.1zm.4-.6zm-.1-.4zm-.1-.6zm.9 1zm.6-.3zm.8 .8zm.6 1.2zm-.4 .2zm-.3 .1zm0 .7zm.4-.1zm-1.2 .5zm-.6 .3zm-.3 .2zm-1.4-.5zm-1.3 .1zm-.5 0zm.1 1.3zm.6-.1zm-.6 2.2zm1.5 .6zm.4 1.5zm-.3 .4zm-.6 .3zm-.5-.4zm1.7 1zm1.9-3zm.7-.1zm1.3-1.1zm.7-.8zm.5 .2zm-.1 .7zm.6 .2zm2.3 2.1zm3 .3zm1.8-3.2zm0-2.1zm-.9-.3zm-1.4 .6zm-1.3-1.5zm.4-.4zm-.4-.5zm.3-.4zm.2-.2zm.1 .3zm.7-.2zm1.1-.4zm1.4-.5zm1.1-1.2zm-.2-.5zm.6-.8zm.5 .8zm.1 .9zm.1 .4zm.1 1.2zm-.7 .2zm-.2 .8zm-.3 .6zm.3 .5zm2.5 1.7zm.5-1.2zm.3 0zm.3 2.3zm.7 1.3zm.6 .9zm1.5-3.9zm3-.9zm.8 0zm1.2-.2zm.4-1zm-.3-1.2zm1.4 .3zm.5 0zm0-1.2zm-1.8-.7zm-1.4-2.7zm.6-.9zm.6 .5zm-.1-1.6zm.9-.4zm.4-.8zm.6-.3zm.6 .2zm.1 .3zm-.6 1.1zm1.5 .1zm-1.1 2zm-.6-.3zm-1.7-3zm-.2-1.4zm.6-.4zm.9-.5zm-1.1-.9zm.5-.7zm-.8-.3zm.3-.8zm.9 0zm1.5-1.7zm-1.4-1.7zm-.7 .1zm.8-1.4zm-1.1-.2zm0-1.3zm-.4-1.6zm.3-.8zm.5 .4zm1.2 .5zm.3-1.5zm-1.7-2.4zm-.7 .5zm-.6-.2zm-.1 .1zm-1.8 0zm-.4 .3zm.2 1.3zm-.3 .3zm-1.8 .5zm-.1-.2zm.5 1zm-.4 1.1zm.8 1zm.8-1.5zm1.1 1zm1.4-2zm1.2-4.3zm-1.1-.4zm-.4-.4zm1.1-1.7zm.7-.3zm-.3-.7zm0-.8zm-.8 .2zm-.9-1.3zm-.3-.6zm-.2-.2zm-.1 .4zm-1.1 .9zm-1.1 .5zm0 1zm0 .6zm-.5 .4zm-.8-.7zm-.2-.8zm-.8 1zm-.6 .8zm-.6 .1zm-1.4-.7zm-.2 .5zm-.6 1.1zm.7 .3zm-.3 1.1zm-.3 .8zm-.6-.2zm-.2 1zm1.2 .4zm-2.2 1.1zm-.1 0zm-.8-.6zm-.2 .2zm.6-.6zm.3-1.4zm1-1.2zm-.1-.3zm4.6-.8zm.3-.4zm0-.1zm.6 2.5zm1 0zm-.5 1zm0 .1zm1.5-3.8zm4.7-.1zm1.2 2.4zm2.2-1.2zm2.3 1zm.3 0zm-.1 .9zm-.1 .2zm0 .6zm0 .5zm.9-.4zm.6-.1zm.6-.6zm.2 .1zm.7-.1zm.8 1.7zm.8 .1zm.8 .7zm1.2 .6zm.3-.2zm-.2 .7zm1.6-.7zm.6 .7zm-.3 .9zm1.3-.1zm.8 .5zm.8-.7zm.6 1zm.7-1zm.5 .7zm-.4 1.5zm-.6 .5zm-.2 .5zm1.9-1zm.5-.2zm.5 .1zm-.3 .6zm1-.4zm-.6-.9zm.3-1.5zm0-.1zm-1.1-1.2zm.6-1.6zm-.1-.5zm.4 0zm.2-.4zm-.5-1.7zm-.2-1.4zm.4-.5zm-.2-.8zm-.5-.8zm.1-.8zm-.6-1.1zm.9-.6zm1.3 .7zm.8 1.9zm1.8 .1zm.9 1.5zm1.9 .7zm1 1.1zm1.8-.5zm.8-2.3zm.2-2.2zm-.3-1.4zm-1.8 .5zm-.5 1.1zm-1 .3zm-1.3-1zm-.5-.6zm.2-2.6zm2.6-2.1zm1.3 .4zm.1 .1zm.7 .3zm-.2 .8zm-.4 .4zm-.5 .3zm-.2 .2zm-.1-1.1zm2.3 .3zm-.6-2.1zm.1-1.3zm1.9 1.1zm1.2 1.1zm.5-1.1zm1.2 2.7zm.6 0zm1.8-2.1zm.9 1zm1.1 2.2zm-5.4 3.6zm-1.5-3.6zm-5.4 4.9zm.1 4.7zm-2.3 1.3zm-1.9 0zm-1 1.2zm-.7-1zm1-1.6zm.3-.6zm1.2 3.6zm.1 1.1zm1.2 2.1zm-3.5 3zm-1.8-.4zm-.1 .7zm-.5 .8zm-.7 .2zm-.8 1.6zm-1.2-.2zm.2-.7zm-1.3-1zm-.1-1.1zm-1.4 .3zm-.1-.4zm-1.4-.2zm-.6-.5zm-1.4-.7zm0-.2zm.3-.5zm-.1-.7zm-.1-.3zm-.4-.2zm-.3-1zm-.4-1zm-.6 2.8zm.5 .4zm.3 .3zm.2-.4zm.2 1.1zm-.3 .6zm-.4-.6zm.2 1.3zm-.4 0zm-1.1-.3zm-.8 .1zm.5 .8zm.3 .3zm0 .5zm-1.1-.1zm-1.3-.6zm0-.2zm.2-.4zm.4-.6zm-1.3 .3zm-.4-.8zm-.1-.1zm-.5-1.1zm-1.2 .7zm.1 2.7zm.4 0zm.5 .3zm0 .7zm-.8 .1zm-.1 0zm-.4 1.9zm-1.1 0zm2.3 .7zm.8-1.2zm.6 .5zm.7-.1zm1 1.1zm.7-.4zm.1-.2zm.1-.1zm.4 1.4zm-.4 1.4zm-.2 .3zm.2 .4zm-.5 .1zm-.5-.5zm1.6 .3zm.5 .8zm.6-1.7zm.3-.3zm.7-.1zm.1-1.2zm1.3 0zm0 .5zm.5-1.1zm.1-.3zm.9 .6zm.9-.1zm1.2 .1zm.6-.4zm.4 .8zm.3 1.2zm.6 .5zm.9 .3zm1.1 0zm.7-.5zm-1.2-.5zm1.2-2.1zm.8 .1zm.2 .7zm.7 .2zm1 .4zm-.1 .3zm1.3-.1zm.1 .5zm1 .9zm-1.7 .5zm-1.2 .2zm-2 .7zm-.7 .4zm-.5 .5zm-.4-.1zm-.1-.5zm-.4 1.1zm-.3 .3zm-.3 .1zm-.1 .3zm-.1 .8zm-1.5 0zm-.4 .2zm1-2.3zm-.3-.7zm.2-.9zm-1-.8zm.4-.5zm-1.1 .4zm-.7-.1zm-.8 .4zm-1 0zm-.4 .3zm.6 .8zm1.2 1.2zm-.2 .7zm-.4 .5zm-1.2 0zm-.2-.5zm-.3 2.2zm-1.8 0zm-.6-.6zm-1.7 .4zm-.6-.1zm-.4 .2zm.5 .6zm0 .5zm-.3 .9zm-.5 .5zm-1.4-.3zm-1.3-.1zm-.6 .1zm-.3 0zm1.1-1.1zm-.1-.8zm2-.8zm.2 .9zm-.2-1.9zm-.2-.3zm-.8 0zm1.5-1zm.4-.3zm.3 .1zm-1.3-2.4zm0-.5zm.8-4.3zm2.4 .4zm1.8 .6zm2.2-.6zm1.7 .7zm.2-.5zm.2 0zm.7 .8zm2.1 .7zm3-1.5zm5.4 2.6zm-2.7 4.9zm.4 2.5zm-2 1.1zm-1-2.6zm-.3-.5zm-1.3-.6zm-4.3-1.9zm-1.3 5zm-2 1.4zm-1.3-.7zm5.5 2.1zm-9.6 2.5zm-.5 1.3zm-1.2 .2zm-.5-.4zm-.6-1.2zm.6-.4zm.4-1zm-.8 0zm-.8-.2zm-3.4 .5zm3.7 3.3zm-7.4-7.7zm.1-1.3zm-.6-.8zm-.5-.2zm-.2 .5zm-.5-.9zm-.2-.4zm.2-.2zm.3-.4zm.7-.2zm-.8-.6zm-.8 .7zm-.3 .4zm.3 1zm-.2 .9zm-.6 .4zm0 .3zm.2 1zm-1.3 1.1zm-.9-.9zm-.6-1.6zm-.7-.2zm1.5 0zm.8-3.1zm.4-.8zm-.5-.3zm-.3-.8zm.5-.4zm1.1-.5zm.3 .1zm1.3-.3zm-.1-.9zm.3-.7zm1.1 0zm0-.9zm1.9 .6zm.2-.4zm-.4 1.7zm-1 .2zm-1.9 1.5zm-1.5-2.2zm-.5-.9zm-.2-1.4zm-.6-.8zm-.2-.3zm-.3-.1zm.3-.9zm.9 .1zm.2 .2zm1.1-.5zm-.6-1.3zm-.7 .5zm-.5-1zm-.7 .6zm0 .2zm-.4 0zm-1.5-.2zm-.2 2.5zm-1.8 .4zm-.7 .5zm-1.9-.8zm-.8 .6zm-1.5-.5zm-1.5-.8zm.8-1.7zm.2-1.2zm.1-.7zm.2-.7zm-.5-.3zm1 .7zm1.8-.7zm2.4 0zm.6-.5zm.5 .2zm3-.3zm-5.4-2.2zm-2.3 .6zm-.1 .1zm-1.2-.6zm-.7 .1zm.7 1.4zm-1.3 2.2zm-1.3 1.2zm-1.3-.5zm-.5-.2zm-.7-.7zm-.2-.3zm-1.8-.3zm.1-1.1zm.4-.5zm0-1.8zm-1.5-.8zm-2.3-.8zm0-.8zm-.2-2.6zm-1.9-.1zm-1.3-1zm.4-.7zm1.9-.2zm2-.4zm-1-1.8zm-.6-1.4zm-1.5-.8zm1.1-1.4zm3.2-.1zm.9 .3zm.4-1zm1.1-.3zm0-.7zm-.2-1.2zm.2-.8zm-1.2 .7zm-1.2-1.1zm.3-.3zm-.9-1.2zm.1-.1zm-1.2-1zm.2-.5zm-1.1 .3zm-.5-.1zm.7 1zm-.2 1zm-.3 .5zm-.8-.1zm-4.9 4.8zm.6 2.6zm-3.6 1.9zm-1.9 2.1zm-.5-.2zm-.7 .8zm-.4 .8zm0 1.5zm-1.5-.1zm.1 .8zm-.6 1.2zm-.4-.2zm1.7 .6zm-1.8 1.5zm2 .9zm2.1-.3zm.4 1zm.2 .3zm1 .1zm.6-.4zm-.2-.5zm1.1 .7zm-.3 1.3zm.3 .3zm-1.5-.2zm-.3 .4zm-.7 .2zm-.6-.3zm-.1 1.5zm-.1 1.2zm-.5 .8zm.7 .6zm1.2-.1zm.1-.4zm1-.9zm2.2 .1zm1.2 1.2zm-.1 .2zm-.7 .4zm-1.1 .1zm-.3 1.3zm-.6 .1zm1.7 .4zm.2 1zm.3 .2zm.2 .3zm0 .4zm-.9-.1zm.2 1.1zm-.8-.1zm-.7-.1zm-.2-.9zm-1.7-1.2zm-.7-1.8zm-.5 .1zm-.5 .7zm-2.5 .6zm-.5-.9zm-1.4-.4zm-.8-.7zm-.3 .4zm1 2.2zm-.5 .9zm.7 .8zm1.5-.2zm.2 .3zm-.4 .7zm-.1 .2zm1.2 1zm.4-.9zm.2-1.5zm2.5 1.3zm1.5 2.2zm2.6 .4zm1.2 .5zm.9-.9zm1.3 1.2zm-1 .9zm-.6 1.1zm.5 .6zm2.7-1zm.9 .7zm0 1.5zm1.4-.3zm.8-2.4zm.4 .1zm-.3-.8zm-2.4-.4zm0-.4zm-.1 1.1zm.6-3.1zm-.6-1.6zm.8-.4zm-.5-1.2zm1.5 .2zm.6-.4zm1.2-1.4zm0-2.6zm-.7-.1zm2.4 .7zm1.1-.6zm0-.9zm1.8 .4zm.2 2.2zm.8 1zm.5 .5zm.8-.3zm-.3-.5zm.2 1.3zm.9-.3zm-.1 1.9zm-1 .1zm.5 .9zm1.4-.3zm.1 .5zm1.1-.8zm-.1-1zm1.2-.7zm.4 .8zm.7 1.2zm.7 .8zm.3-.4zm1 .7zm.8-.7zm.1 .1zm1.4 .1zm-.4-1.6zm.5-1zm-.6-1zm-.8 .6zm-.8 .9zm-.5-.3zm.1 4.9zm-2.7 2.1zm-.9 .1zm-.8-.4zm-.5 0zm1-.8zm-.6-1zm-.6-.8zm-1.2 3zm-1.3-.5zm-.7-.3zm-1 1.8zm.2 .6zm.1 .1zm1.4 .9zm-1.2 1zm.1 .8zm1.1 1.2zm-3.1-2.3zm4.9-1.5zm-2.8-6.3zm-1.2-.7zm-.4 1.3zm-.2-3.7zm-.6-1.9zm0-.1zm.2 0zm-5.5 .5zm-.9-.5zm-1-.5zm-.1 1.3zm-1.8 .8zm.2 .4zm-1.4-1.3zm-.9 1.2zm0 .3zm.5 2zm1.9 .4zm-.6-5.2zm-.6-.6zm.7-.5zm-.2-2zm-.7-1.5zm-.8-.7zm2.5 .6zm1.3-1.4zm.8 .1zm.3 .1zm2 1.5zm-3.5 2.2zm-2-5.6zm.8-.8zm-1.6-.7zm-.4 .9zm-.1 .2zm-4.9 .2zm.3-3zm-.2-.2zm1.1-1.9zm-3.1-5.1zm-1.8 .9zm-.5 1.2zm-1.6 1.2zm.1 .5zm-.1 1.1zm.2 .1zm-1-.3zm-.3-1.1zm-1-.8zm-1.3 1.5zm.4 .4zm-.4 .5zm-1.1-.4zm-.5 .2zm-.2 .5zm-4.3-1.3zm.4-2.5zm-2.5-.4zm-1.2 .4zm-.2 1.1zm-1-1.2zm.9 3.5zm-.4 1.4zm-4 2.8zm-1.4-.2zm-.8-.9zm.7-1zm1.1 3.6zm-7.4 5.1zm-2.5 .4zm0 1.8zm-.6 1.2zm.7 1.2zm-1 .2zm-.8 .5zm.2 .9zm-1.2-.6zm-.5 1zm-.3 .9zm-.2 .3zm1.1 1.5zm2.3-.7zm.3-1.3zm.5-.7zm1.4 .8zm.3-1.3zm1 .1zm.7-2.8zm.8-.7zm1.5 4.3zm-.3 2.9zm-3.4-.6zm-1.2 1.6zm-.2 .1zm-.4-.6zm.3 1.4zm0 .1zm-.1 1.3zm.4 .3zm.2 .7zm.3 .1zm-1 .1zm.1 1.6zm-.7 .7zm-.7 .1zm-1.4-.8zm-1.2-1.9zm-.5-.1zm-.7-.5zm-.3-.5zm-.6-.2zm.1 1.3zm-.7 .2zm-.6-.6zm-1.3-.7zm.5-.6zm-.5-.2zm-.3-1.7zm-.4-.2zm-.7-.2zm-.2 .8zm1.9-2zm1.1-.3zm1.2 1.3zm2 1.8zm-.7 1.1zm3.5-.4zm-6.8-5.6zm-.5-.2zm-1.4-.6zm-.1-.4zm-.7 .4zm-.8-.4zm-1.9 .3zm-.8 .4zm-.2 0zm.3-1.5zm.1-1.7zm.5-.2zm1.1-.4zm.2 .3zm-.4-.7zm-.7-1.2zm1.2-1.1zm.8 0zm.1 .1zm.4-.4zm.6 .6zm-.1 1zm-.6 1.7zm.1 .1zm2.3-1.4zm-.1-1zm.6 2.5zm1 1zm.9 .7zm.3-.3zm.6-.5zm-.7-.3zm1.5-.8zm.5-2zm2.6-3.2zm.3-7.7zm-2.7-.7zm.1-1.3zm-2.1-.9zm-.4 .1zm0-.8zm.5-3.6zm1.3-.5zm1.3 .5zm-1.2-2.8zm-.8-1.7zm.1-1.9zm-1.5 3.3zm-2.1 1.8zm-4.9-.6zm-1.4-2.7zm-1.2 .5zm1.9-2.8zm-5.4 .7zm-.5 .1zm.1 1.6zm-.9 1.7zm-1.2 1.5zm1.9 .9zm3.2 .8zm-1.7 2.3zm-2.2 6.4zm-.2 .2zm.1 .1zm.2 .5zm-1-1zm-.9 2.2zm-1.4-.5zm4 2.6zm1.1-.4zm.6 1.9zm.2 .3zm.5-.2zm1.8 2.3zm-.5 3.6zm0 .6zm-.1 .9zm-1.2 3.7zm-.5 .9zm-1.6-.2zm-.5 .4zm2.6 1.8zm.3 1.6zm1 .4zm.6 0zm-.2 .5zm-1.1 1.9zm2.2-3.9zm-.5-2.6zm1.2 0zm.8 0zm.5 .2zm.9-2.1zm1.8 .5zm.2 0zm-.2 7.8zm-1.1-.1zm1.8 2.5zm.1 3.6zm15.9 12.1zm4.9 .5zm1.4-.7zm-.6 6.3zm-.7 .6zm1.8-.2zm1.5 .2zm.2 .5zm-.3 1.6zm.5 .9zm1.5-.1zm.2-.3zm1.4 .6zm3.9 .1zm3.1 3.9zm-1.6 1.3zm4.4 2.5zm.5-.4zm.4 .9zm-.6 .4zm1.3-1.1zm-12.8-12.4zm9.1-13zm2.3-5zm-1.1-.6zm-.5 0zm1-3.1zm3.7 1zm.5 1.4zm3.9 4zm.9 2.6zm-1 .5zm4.2-1.6zm-1-4.2zm1.7-.1zm.1-3.2zm1.7 11.2zm2 .6zm4-1.8zm1.1 .4zm.3 1.7zm.8 .4zm-2.7 7.3zm-26.9-14.1zm.4-1.1zm1.7-3.1zm-1-4.1zm.1-1.3zm.6-3.4zm0-1.8zm-.5-.2zm-.6 .1zm-1.4-1.1zm-.3 .2zm-.7-1.6zm1.6-2.4zm.5 .4zm.2-1.5zm2.5 6.5zm.6 1.7zm4.1-10.2zm0-1.8zm-.2-1.6zm.1-14.6zm-.6-.7zm-1.9 .3zm-1-1.3zm.9-1.1zm2.7 .3zm.9 .6zm1.1-.8zm.7 0zm.1-.9zm1.3 1.2zm.5 .5zm-9.6 1.9zm-.8-2.1zm-1.4 .1zm0-.3zm-.3 1zm-.6 0zm.3 2zm-1.1 1.3zm-2.3-4zm-1.5 .4zm-.5-.5zm-5-4zm-.3-.4zm-1.6-1.8zm.1-.7zm-.3-1zm-.6 2.1zm-1.4 1zm-.5 .3zm.1 1.8zm-.8 .6zm-.8-1.2zm2 2.6zm-4.5 .4zm-.2 1.3zm-1.3 2.5zm-.4 1.1zm2.4 1.6zm3.1-2.4zm-5.3-6.4zm-2.1-12.9zm1.4-.4zm-3.7 .9zm-3.4-7.6zm.7-.8zm6.3-2.3zm-13.1-1.9zm-1-1.3zm25.3-10.3zm2.4 23zm32-10.7zm8.7-11.5zm-11.1-9.6zm26.9-11.3zm-7.6 50.2zm-.6 1.4zm-1.1-.3zm.7 1.4zm-1.7 2.8zm-2.7 1.1zm-.5 1zm-.8 .6zm1 .6zm1.1-.4zm1 1.6zm3.4-.5zm1.4-.5zm2.5-1.3zm-.3-.6zm1.6 .8zm.8 .1zm-1.1 1zm.9 1.3zm-.1 .4zm1 .7zm.6 .4zm1.9 1zm1.8 .4zm1-.8zm1.2-.4zm1.3 1.9zm.4 1.1zm.9 1.5zm1.1 .1zm-.8 1.4zm3.5-2zm.4 .5zm.9 1.1zm2 2zm1.2-.2zm-.7 1.4zm1.6 .2zm.9-.2zm1 1.6zm.4 .7zm-2.2 .2zm0 2.8zm-.4 1.4zm-1.1-.5zm-7.5-1.1zm-.5-.3zm.1 1.5zm-1.6-3.8zm-1.8-7.9zm-2.2-4.9zm-1.7-1.6zm3.2-.8zm3-1.2zm.7-.9zm1.9 5.3zm.2 .8zm2.2-.3zm1.3-1.1zm.2 2.2zm.1 .6zm.5-.2zm.8 1.1zm-2.4-.9zm3.4-1.6zm1.7 1zm.2 1zm.1-2.8zm-1.7-2zm2-.7zm2.8-1.1zm.9 .4zm-.2 .5zm-.5 7.3zm-1.2 1.2zm-.8 .6zm-.3 1.5zm-1.3-1.8zm3.4 .7zm11.2 4.7zm-2-16.9zm.5-2zm-2.4-3zm9.2 0zm2.4 .1zm.5 2.7zm-.2 .8zm21.3 22zm.8 .3zm0-.8zm1.5-1zm1-.5zm1 .7zm-.4 .4zm-.5 .3zm1.2-.2zm1 .7zm-3.2 .7zm-48.6 36.7zm-16.4-32.6zm-.4-.2zm-.2-.9zm-.2-.7zm.4 0zm-13.1 .7zm-.6-7.8zm-.3 0zm.6-1.6zm-.7-1.6zm.1-.5zm-1.5-1.2zm-1.5-.1zm-1.3 1.2zm-.6 .3zm-.5-.8zm0-.7zm.5-.2zm-.4-1zm-.8-.2zm0-1.1zm-.2-1.7zm-1.6-1zm-.2 .2zm1.6-1.1zm.5-.6zm-.1-.5zm.9 0zm.9-1.3zm-.3-.5zm1.7 2.6zm1.8 .5zm.4 1.3zm-.5 .1zm-.1 0zm0 .8zm.5 .2zm-.2 1.3zm.4 1zm-1.8-2.7zm-1.6 0zm4.6-1.6zm1.2 1.8zm.7 .1zm5.2-1.7zm1.2 1.1zm-.5 .8zm-8.2-5.2zm1.9-5.4zm-7.6 1.1zm-1.1 14.8zm3.5 1.2zm1.6 1zm-63 6zm-1.1-1.1zm-9.4 3.9zm-5.9-1.1zm-3.1-3.3zm.4-2.7zm-.8-.5zm-.2-1.7zm.2-1.4zm-2.4 2zm-1 1zm-.4 1.2zm.4 .8zm.9 0zm-4 .7z"/>
<path class="ps" stroke="#150a35" stroke-width="1.0" d="M302.7 706zm1.8 .5zm2.1 1.3zm1.4-.2zm-.3-.7zm1-.2zm.7 .8zm.6 .1zm-.6 1.4zm.8 .3zm.1 .2zm1.2 .3zm.9 .2zm.3-1.2zm-.2-.2zm.9-1.9zm-.5-.3zm0-.4zm.1-.3zm-1.4 .3zm4.1-.2zm.4 .7zm1.1 .7zm.5 0zm1.1 .4zm1-.1zm.9-.6zm-.5-.8zm2.3-.6zm1.3 .4zm1.8-.5zm1.3-1zm.2-1.2zm-.9-.6zm0-.1zm-.2 .7zm-.9-.2zm-1.3-.2zm-1 .7zm-.1-2.5zm-.6-.4zm-1.3-.5zm-.5 .3zm-1.4-.2zm-.3 .1zm1 1.9zm0-4.1zm.9-1zm.4 .3zm.7 .8zm1-1.7zm-2.1-.1zm-1.2-.2zm.3-.8zm3.7-1.9zm.1-1.6zm.5-.3zm-.7-.3zm1.6 .3zm1.5 1.6zm-.7 1.9zm3.8-1.2zm5.2-1.9zm.3-.7zm.5 2.2zm.4 1.3zm.3 2.2zm.5 .7zm.4-.1zm.5 .1zm1.8 .1zm.9-1.3zm.6 0zm1.7 .5zm1.1-2.2zm1-1.1zm.6 1.8zm.8 1.7zm2.1-1.6zm1 .8zm1.4 .2zm0 1.3zm-.2 1.6zm-.1 0zm-1.2 .4zm1.1 1zm-.2 1.4zm-.5 1.2zm.3 .8zm.5-.4zm-1.5 .6zm-.5 .4zm.1-1.7zm-2.3 .2zm-1 .4zm-.2-.1zm-.7 1.3zm.5 .4zm1.7 .1zm0 .3zm.7 1.9zm.7 .2zm0 .6zm1.6-.2zm-.6-1.2zm.9-.7zm.9 1.3zm2.8 0zm-.5-2zm.4-.4zm-.5-1zm-.2-.7zm2.2-1.3zm1.9 .5zm1.9 .3zm.8 1.4zm.9 .3zm.1 .3zm.1 .5zm-.7-.1zm1.4 .8zm1.9 .4zm1-.9zm1.1 0zm.5 .7zm.8-.2zm-.3-.7zm.9 .1zm-.3 1.6zm-.1 .7zm1.2 .1zm.3-.2zm.9 .3zm.6-.5zm.4-.5zm.2-2zm.4-1.9zm-.9-.2zm-1.3 .3zm-.2-.3zm.2-1.4zm-1.8 .6zm0 .6zm-.9-.3zm.3-1.4zm-.4-1.1zm1.8-1.3zm.2-.9zm.9-.7zm.1-.9zm-.7 0zm.7-1.4zm.5-2.8zm-.1-.4zm-1.4-.4zm-1.6 1.9zm-.4 1.1zm.2 1.3zm-1.3 .2zm-1.5 0zm-.8-.4zm.7 1.5zm1.4 1.3zm-3.4-1.3zm-1.2 .5zm-.3 .8zm-.6-.5zm-.8 1.1zm-.3-.1zm-1 0zm-1.6 .3zm-.3 .4zm.4-1.6zm-.7-.1zm-.2-.7zm.9-.9zm-.5-.7zm-.3-1.1zm-.5-.5zm.3-.6zm2.1-.6zm.4 .9zm-1-2.2zm1.7-.7zm-.2-.8zm1-2zm.9 .2zm-.4-1.5zm.1-.1zm1.3 3.5zm.2 1.9zm-.4 2.1zm-.7 .7zm.9 5.3zm.4 2.8zm.6 1.1zm1.1-.2zm-.1-.9zm1.8 1.6zm.3 4.4zm.7 .5zm-.5 .4zm.2 1.4zm.4 .4zm.2 .5zm-.5 .1zm-.4-.4zm-.5 0zm-1 .9zm-1.6-.8zm-.9-1zm.1-1.5zm-1.3-1.2zm.2-.6zm-1.2-.2zm-.4 .7zm-.6 .2zm-.5-.3zm-1 .1zm0 1.2zm1.1 .4zm.6-.4zm.8-.7zm-.5-2.4zm-1.2-1zm-1.1 .1zm0-.8zm.8 2.5zm-2.6 3.1zm1.3 1.6zm-2.6 1.5zm-1.9 .1zm.2-1.7zm2.6 3.4zm1.3 1.8zm.8 0zm1.1-1zm1.3-1zm2.7 .6zm1.5-.5zm.7 .8zm2.3-.8zm.2 1.7zm-.8 1.5zm1.4 .1zm.6-.3zm-.7 1.2zm.5 1.6zm1.2-.4zm1.1 .1zm.3-.2zm-.3 .6zm-.3 2.6zm-.4 .9zm.3 1.8zm.1 .8zm2.4 .6zm3.3-1.6zm2.1 .1zm1.3 1.7zm.5-.3zm.8 1zm-.8 1zm-1.1 .5zm.3-1.5zm-2.1 .6zm5.6-1.2zm1.7-1zm1.2 0zm.2-1zm-.5-.2zm.6-1.1zm0-.2zm.2-.5zm.2 .1zm0-.6zm.3 1.6zm1.1 .3zm1.4 .4zm.4-1.4zm0-1.4zm1.8 .3zm.7 .7zm.4 .8zm-.6 1.2zm-.8-.5zm-.2 2.1zm-3.3 .5zm.2 .9zm0 .1zm1.1 1.5zm-2.1 1.3zm-1.5-2.4zm-.7 .2zm-.2 .2zm-.7-.1zm3.1-2.3zm.5-.3zm-.4-.4zm-3.8-2.2zm.3-.7zm-.8-.2zm-.1 .4zm-.4-.9zm-2-.2zm-.1 .1zm.1 .7zm-1.9-1.2zm-.3-.5zm-.3-.1zm-.1-.1zm.1-1.5zm.8-.2zm.2 .1zm.2 .7zm1.1-.2zm.4 .1zm-.6-1.1zm.4-.3zm-1-.1zm2.4 .7zm.7 1zm1.2-.2zm.9-1.2zm-1-.3zm2.6-.7zm-.1-.5zm.6 .1zm1.1-.4zm.3 .3zm-.1-.8zm-.2-.5zm.7-1zm.6 .4zm.4 .2zm.5 1.5zm.8 .6zm0 .1zm-1.5 .1zm-.4 1.5zm-1.2-1.2zm-.8 2zm-.6 .2zm.1 .2zm-.2 .3zm-1-5zm.7-1zm-.9-2.6zm-.2-.1zm0-.1zm.6-1.3zm-.9-.5zm.2-.8zm-.2-.6zm-.7-.1zm.4-.6zm-.2-.5zm.4-.1zm-1.2-.7zm.5-1.9zm-.5-.5zm-.6-.5zm-.7-.3zm-.7 .9zm-1.3-.1zm-.7-.5zm-.9-.9zm-.3-1.4zm-.2-.2zm.3-.9zm0-.5zm-.5-.5zm.9-.1zm1.1 1.6zm1.4 .7zm-.4 .9zm2.3-1.6zm.2 .1zm.7-1zm1.2 .3zm.8 .6zm-.3 .5zm2-2.2zm.8-1zm.8 .2zm-1.4-.9zm-.2-.3zm.3-.4zm-1.4-.9zm.6-.6zm-.6-1.1zm-.4-.2zm-.8-.8zm-2.2 .8zm-.7 .2zm.3 1.3zm-.3 .8zm1.5-.1zm.3 2.2zm-3.2-4.4zm-1.5-1.1zm-1.5-1.3zm-2.1 1.6zm-.3 .8zm.6 2.3zm.5 1.4zm.4-.1zm-1.4 2.5zm1.1 1.3zm-1.4 1.1zm2.4 2.1zm1 .7zm.3 .2zm.5 .2zm1.5 .3zm-1.2 1.4zm-.9-.1zm-.3 1.6zm-.8-.2zm-.4 .6zm-.5 .1zm0 .5zm-1.1 1.1zm.7 1.1zm1.2 2.3zm-1.3 .3zm.3 .9zm-.9 .6zm-.1 .4zm-1-.1zm-.1-2.1zm-1.5-1.7zm1-1.9zm-2.7 0zm-.5-1.7zm-.1-.6zm-.7 .7zm.1 4.2zm-.1 .3zm1.6 .7zm-1.6 1.1zm2.3 1.3zm1.4 5.2zm-1.5 .7zm-3.6-1.5zm-1.7-1.8zm-1.9 1.4zm-.6-.5zm-.1-.4zm-.3-.8zm.3-1.2zm1.1-.4zm-3.2 .4zm-.3 1.7zm.8 1.2zm-1 1zm1.1 .7zm.6 .8zm.3 .3zm-.3 .7zm-.7 .4zm-.7 .3zm-.1 .3zm.6-1.7zm2.6-.1zm.9-.1zm.1-.2zm.5-.5zm-.5-.6zm-.5 2.9zm2.4 1.4zm.1 2.2zm-10-1.5zm-.5-.6zm-.7-.9zm-.4-.2zm-.2-.7zm-1.3 0zm-1.2 .2zm1-1.8zm-.2-.9zm-2.4 .9zm-1.1-.6zm-.2 1.7zm-.8 .9zm-2.7-.7zm-.3 1.3zm2.6 2.3zm1.9 .9zm.1-.1zm3.5-1.5zm1.1-.9zm1.3 1.6zm.5-5.5zm.4-.7zm-.8-.1zm-.2 0zm.4-.9zm1.3-1.3zm.1-.6zm-.7 .2zm-1.2-1.1zm-1-1.1zm-.4-.4zm-1.8-.7zm-.4 1.5zm-1.4 .4zm-.9 .4zm-.8 .5zm-.8 .1zm-.8 .1zm-.8-.2zm-1.2 .3zm-.3-.1zm-.3 .2zm.1 .6zm.1 .3zm-.8 .1zm-1.4 .3zm-.5 1zm-.5 1.2zm-2.7-1.4zm-.5-1.5zm0-.3zm0-.7zm.1-1.8zm.4-.5zm-.1-.1zm1.4-.1zm1.7-.3zm.9 .6zm.4 1zm-.1 .5zm-.6 .5zm3.2-1.9zm1.7-.3zm.3 .9zm1 .6zm.5-2.2zm1.1 .2zm.9 4.4zm-1.1 .8zm-.9-.5zm-.4 .4zm-.7-.7zm-2 .7zm-.1-1zm.4 2.1zm-3.7-8zm-.2-.4zm1-.4zm1.3-1.7zm-1.5-2.1zm-.3-.3zm1.9-.4zm0-.7zm1.2-.6zm-3.2-1.7zm-.9-1.6zm-1.2 .4zm-.3 .8zm.5 .7zm-1 .4zm1.5 .7zm0 .2zm-.3 .4zm.8-.4zm-1 1.3zm-1.1 3.1zm.4 .9zm-2.1 .5zm-.7-.7zm-.8 .1zm-1.2-1.6zm-.9 .3zm-.3 .3zm-1.6 2.1zm0 .3zm.3 .1zm.3 1.1zm.8 .4zm.7 .3zm-.3 .7zm-.6 1.3zm-.4 .4zm0 .6zm-1.9-1.7zm0-1zm-1.5-.9zm-.9-.1zm0 1zm-1.5-1.3zm.2-1.1zm-.3-.1zm.9-1.4zm-.2-.2zm.8-.8zm-.1-.2zm.7-.5zm0-.6zm1.3 .4zm.4-1zm-.2-1.8zm-1-1.5zm-.2-.9zm.4 0zm0-1zm-.9-.2zm.1-.3zm.2-.6zm-.3-.4zm0-1zm.9 0zm.5 .2zm.5 .7zm-.2 .5zm.8-1zm.5-.3zm-1.7-.8zm.8-1.1zm.2-.3zm1.8 .4zm.2-.9zm1.9-1.2zm3 1.8zm1.1 0zm0 2.5zm.4 1.7zm.5-.2zm-2.8 .5zm-.7 .1zm-1.4-.9zm0-.3zm-.8-.7zm-.9 1.8zm.2 .8zm2.1 1zm1.4 .8zm-2.2 .6zm-.2 .7zm3.1 3.4zm.2 2.7zm-1.1 1.4zm-1.4-.2zm-1.4-1.1zm1.7 6.1zm-5.4-.3zm-6.1 0zm-2.3-2.2zm3.2-3.2zm-1.5-2.2zm-.3-1.6zm.7 0zm-.3-.6zm0-.6zm-.9-1.1zm-1.9 0zm-2 0zm-.7 1zm1.2 2.6zm-6.6 1zm-1-.8zm.2-.6zm0-.2zm-1-1zm-.4-.2zm0-.1zm-.3 1.3zm-2.1-1.9zm-2-.5zm-1 1.3zm6 5.4zm-.5 1.3zm-1.6 .4zm8.1-12.5zm-3.3-7.8zm.2-.5zm1.3-1.7zm-3.9 3.5zm-.1 0zm-.6-.4zm-.7-.5zm.1 1.7zm-1.9 2zm-3-4.5zm4.4-4.6zm10.8-8.8zm2.3 .3zm.6 3.7zm4.7-2zm5.5 3.2zm2.7-.3zm2.1-1.2zm-.2-2.7zm2.5 .7zm2.4-2.3zm2.7 1.9zm1 .9zm-2.3 .2zm-2.3 2.3zm1.3 1.8zm1.8-.9zm-3.6 2.4zm-.2 .7zm-1.1 0zm-.2-2zm-.4-.5zm-5.1-5zm12.5-3.9zm.7-.2zm.4 .9zm.6 .1zm.5 2zm.7 .5zm.5-.6zm-1.4 2zm2.8-4.5zm.4-1.9zm-.4-.2zm3.2 .2zm8.8 6.2zm1.4 .7zm.2 1.4zm-.7 .8zm0 1.1zm-.9 .8zm2.8-3.4zm1-.5zm1 .9zm-.1 .6zm-.2 .3zm2.3 1zm.2-2.2zm-.1-.6zm.9 .7zm2.3-1.4zm1.4 1.3zm3.5-.3zm5.5 2.3zm.5 .9zm.6-.9zm.8 .5zm1.6 0zm1.4-1zm-.8-1.1zm.9-.5zm.5-.4zm.2-.3zm-1.9-.5zm-.8 1.3zm.9-3.9zm-.4-.4zm-.4-.7zm.3-1.3zm-.9-.4zm-.9 .9zm-1.2 .5zm-1.4-.9zm0-.3zm2.8 2.6zm3.4-1.8zm.7 1.3zm1.9 4.3zm.8 1.2zm1-.1zm1 1.1zm.6 .3zm-.2 1zm0 .3zm1.1-.4zm.8-1.1zm.1-.4zm-.1-.3zm.5-.5zm-.2-.5zm.2-.5zm-1.4 1.4zm-.8-.8zm-1.7-1.4zm-.7 3.5zm.1 .7zm1.9 1.9zm.6 1.4zm-.1 .4zm-.8 1.2zm-.5 1.4zm.1 .1zm-1-.9zm-.2-.6zm-.2-1.7zm.4-.2zm-2.8 .7zm-.7 .6zm-.6 .9zm-1.4-.7zm1.1-3.2zm2.8 5.4zm.3 0zm-1.1 1.1zm-1.5 .9zm-3 2.3zm-.1 .7zm-.3 1zm1.4 1.1zm1.5-.9zm1 1.8zm.4 1.2zm.8-.5zm.4-.1zm.2 .3zm-.6 1.3zm.6 .7zm1-.6zm.8 .7zm-.2 .4zm.4 .6zm-1.7 .6zm-1.5-1.3zm-1.3 .8zm-.3-.7zm.4-1.7zm-.3-.1zm-2.9-.5zm-.4 .6zm-.3 .1zm-.1-.7zm-.9-.6zm-.1-.6zm-1 0zm-.1 1zm-.7 .5zm.1 .4zm1.3 .4zm0 2.7zm.9 .1zm.2 .4zm1.3-.3zm1.8 .6zm.6-.3zm-2 1.8zm-2-.2zm-5-.4zm-1.2-.8zm-.3 .5zm-.6-.1zm-.3-.5zm-.2-.5zm-.3 1.1zm-.9 .2zm1.3 .9zm.1 0zm.3 2.3zm1.1 1.3zm.3 .2zm.4-.2zm-.7-6.6zm-.8-.9zm-4.4-2.7zm-.6 1zm-1 1.1zm.7 .6zm-10.5 1.8zm-4.2 .6zm-.9 6.4zm-.6 .1zm0 5.3zm.2 18.3zm-.8 .6zm-2.5 1.6zm2.7 1.7zm-.6 1zm1.4 0zm-3.5 1.4zm-3.7-5.5zm-3.2 1.8zm-8.1-9.3zm-2.8 .2zm3.9-3.2zm-1.6-1.6zm-5.1-2.8zm-6.1-19.4zm1.3-1.4zm0-1.7zm-.1-.7zm.5-3.7zm.1-.1zm-.9-.5zm-.6 .5zm-1.2 .5zm15.7 .9zm.3-.4zm1.7-.1zm1.1-.4zm1.2-.2zm-3-1.1zm-.4 0zm5.5-5.5zm.4 .3zm.9-.8zm.4-.4zm.1-.2zm2.1 .4zm.1 5.9zm1.2 .9zm-14.7-28.5zm-3.9-5.2zm-2.6-5.8zm-1.9-.6zm-6.8-11.5zm-.8-1.2zm-1.8-1.7zm-1.2-.3zm2.6-2.2zm1.3-1.1zm-.8-1.2zm-2-1.7zm-1.5 1.2zm-.4-2.8zm.2-.6zm-.5-.9zm0-.7zm-1.1 .8zm0 .6zm-.4-1.8zm-.7 0zm-1.9-1zm.7-1.1zm-.1-.3zm0-.2zm-1.6 .6zm-1 1.8zm.7 2.2zm.1 0zm1.5-.3zm.6 1zm-3.2 3zm5.4-7.7zm.8 .6zm.1-.1zm2 .7zm1.6-1.7zm-.2-.4zm-.2-.8zm-.8-.2zm-.2 .3zm1.3-1zm-.1-.4zm.5 0zm.4 .1zm.3 0zm.1 .9zm.9 1.1zm-.5 1.2zm.6 .2zm.4 .7zm-.7 .6zm.4 .8zm-.8 .9zm2.2 1.1zm.2 2.5zm0 1zm-.4 1.1zm2.5-1.7zm2.6 .3zm-1.6 2.4zm4.4-.8zm1.3-3.2zm.3-1.3zm-.1-.4zm.8 .6zm-.3-1.6zm-.8-.5zm-.6-1.4zm.9-1.3zm-.6-.7zm-.4 .1zm2.1-1.3zm.4 1zm.9-.3zm.6-.6zm.3-.4zm.2-.3zm.2 .2zm.9-.3zm.3 .5zm-.3 .3zm-.1 1zm-1.3 1.3zm-.9-.3zm-.8 .6zm2.4 2.8zm1.2 1zm-.3 .4zm1 .8zm-2.8-.8zm3.5-2.4zm-.2-.9zm-.3 .1zm-.7-.7zm1.5-.9zm.8-1.1zm.7-.8zm.3-.1zm.4-.3zm.1-.7zm-.1-.1zm-.2-.4zm-.8 .1zm-.1-.1zm.8-1.1zm.1-.8zm-.1-.2zm1.3 1zm.2 .3zm.4 .7zm.6 0zm.1-.4zm-.1-.3zm.5 .4zm1.2 1.1zm1.3-.7zm.6-.6zm.6 .7zm-.3 .2zm.5 .7zm.4 .8zm.2 0zm.8 .5zm-.1 .8zm-.5 .3zm-.6-.5zm.1 1.7zm-.5 .6zm.4 2.9zm1.3 .9zm-.8 1zm-1.8 .4zm1.3 3.3zm2.7 2.4zm-1.1 .9zm-.2 2.2zm5.6-9.9zm1.1 .2zm-.3-1.1zm-1.6-.1zm-.7-.3zm-.1 .3zm2-2zm-1.3-1.5zm1.5-1.3zm0-.5zm.2-1.6zm-1.6-.5zm-.3-.6zm-.2-.2zm-.5-.3zm-.5-.9zm1.2-.7zm.2-.6zm-.3-.9zm-.5-1.2zm.2-1.2zm.5-.6zm.8 0zm.2 .1zm0-.7zm.2-1zm-1.1-.7zm-.5 0zm-.5 1.4zm-1 1.3zm-1.2 .8zm-.4 .6zm.1 .7zm-1.2-.1zm-.2-.8zm0-.2zm-.8 .4zm-.7 .4zm-1.2-1.2zm-.7-.7zm.6-1.2zm1.7 .3zm.6-.8zm.9-.2zm.5-1.7zm.5-.4zm1-1.7zm-.9-.4zm-.7-.8zm-.1 .1zm-.3-.7zm.9-.3zm1.4 .7zm.2-.2zm.9-.3zm.1-1.2zm.6 .2zm0-.4zm-1.4 .4zm-.8-.5zm.1-.4zm.2-.6zm.8-.3zm.8-.9zm.1 .1zm-.5-.7zm-1.1 .4zm-.5-.1zm-1.1 1.1zm-.6-.5zm-.6 .8zm-.1 .4zm-.6-.6zm-.1-.7zm-1.3 .3zm0 .4zm0 1.3zm1 .1zm-.6 1.4zm-.6 .1zm-.7-.6zm0 1.2zm.1 .7zm-1.6 0zm-.5 .2zm-.1 .3zm-.5-.3zm-.1 1zm.2 .3zm-.3 1zm1.3 .5zm-2 1.9zm.1 .1zm-.8 1.5zm1.4 1.1zm1.3 1.2zm1.1-1.2zm3.8 1.6zm.6 .3zm.9 .1zm-.9 1zm-.1 .4zm.4 .4zm.1 .2zm.5 0zm.3 .6zm.7 .4zm-.7 .7zm-.1 .4zm.2 0zm-.5 .3zm-.7-.6zm.4-.5zm-1.3 .2zm-.5-.2zm-.5-1.7zm1.7 3.2zm-.1 1zm2.3-1.7zm2.9-3zm1.4 .8zm.2-.2zm.2-1.6zm.4-.1zm-.2-.6zm.1-.4zm.5 .5zm.4 .5zm1 .1zm-.2 .6zm.1-1.6zm.7-.4zm-.4-.8zm-.7 .3zm-1.5 0zm0-.3zm-.1-.2zm-1.2-.5zm0-.1zm.1-.5zm1-.6zm.8-1.3zm0-.3zm.4 .3zm.1 .5zm.2 .3zm.8 .1zm.1-.6zm.8 .6zm.2-.7zm1.1 1.9zm1.2-.5zm0-.7zm.9 .1zm.5 .1zm.2 .5zm.8-.3zm-.1-.2zm0-.3zm.4 .6zm.7 .2zm.3 .2zm.2 .8zm.2 .8zm-.3 .1zm.5 .4zm.3 .5zm1 .3zm1.3-1.4zm-.6-1.9zm.9-.4zm2.1-1zm.7 .6zm-.1 .3zm-.2 .6zm.3 .9zm.5 1.6zm-1.6 .7zm2.7-3.4zm.1-.2zm-.5-.5zm-.5-.7zm1.1-.2zm.3-.4zm.2 1zm.7-.3zm.7-.2zm1.2-.4zm.9 0zm.4-.2zm.9-1.3zm.7 .3zm.2-.1zm0 .6zm1.1-.5zm.3 .1zm.5-.4zm.7-.5zm.4 .7zm-.4 .3zm.1 1zm1 .3zm0 0zm-.4 1zm-.5 .1zm-1-.7zm-2.1-.2zm-2.3 .9zm-.4-.5zm-.5 .5zm-.7 .4zm-.8 .2zm1.7 2.8zm-.5 1.4zm2.5-.7zm.9-2.3zm1.4-5.5zm-.1-.2zm.9-.1zm-2-.9zm-.4 .4zm-.5-.4zm-.4 .9zm-2.1 .1zm.1-1.4zm0 0zm-1.3-.1zm-.2 .9zm-.5 .5zm-.5-.3zm0-1.4zm-.8 0zm-.6 .6zm-.4 0zm-1.1-1zm1.5-.5zm-.1-.9zm1 .6zm1-.6zm-.1-1.9zm.1-1.2zm.6-.7zm-.6-.9zm.1-.6zm.4-.1zm.1-.6zm-1.3 .5zm-.3-.4zm.1-1.8zm-.7-2.2zm.5-2zm1.3-.6zm1 .4zm.6-.3zm-.5-1.1zm-.2-.1zm0-.4zm-.5 .2zm.1-.8zm-.5 0zm1.1-.7zm.3 .6zm1.3 1.5zm.9-1.2zm-.1-.1zm1.8 1.5zm.6-.1zm1.1-.1zm-1.1-1.6zm2.6-1.1zm-1.4 4.8zm-.4 .6zm-1.5 .1zm-1.5-.5zm-.1 1.4zm.9 1zm.5 .7zm-.2 1zm1.5-.8zm2-.6zm2 2.7zm.4 .5zm-.9 .1zm-.3 .4zm-.2-.1zm-.4 .7zm-.3 .5zm1.2-.4zm.2 .4zm.8-.1zm-.1 .7zm.1 1zm1.9-.8zm-.3-.6zm-.6-1.6zm.4-1zm.8-.7zm1.2 .5zm.1-.6zm-.1 1.7zm-.6 0zm2.5 1.6zm.3 .1zm1.3-1.3zm.5-.7zm.6 .2zm.3 3.6zm1 .4zm1.1 .4zm.9 .7zm-4 0zm-1.2 1.5zm.7 .8zm1.3 1.8zm-3.3 .1zm-.9-.1zm0 .4zm-.4-1zm-.1-1.2zm0-.9zm.1-1.3zm-.5-.1zm-.1-.7zm2.3 .6zm.1 .3zm-2.9 2.5zm-.1 .2zm-.3-.7zm-.3 0zm-.8-.3zm.2-.5zm-1.2-.1zm-.5 .1zm-.3 .3zm-2-.6zm.5-1zm-1.7-.4zm-2.5 .2zm-.1 1.1zm.7 .4zm-1.5-.6zm-.2-.7zm-.8-.9zm-.1-1.5zm1.9-.6zm-2.1-2.9zm-1.7-3.9zm1.1-1.4zm.3 0zm-3.2-2.7zm-.9-2.1zm.1-.8zm.4-.1zm-.2-.8zm-.8 .9zm-.5-.3zm-.9 .4zm-.6 .5zm-.1 .4zm.6 .3zm1.1 0zm-2-1.8zm-.4-1.1zm2.3-.2zm2.9 1.7zm-5.4 3.9zm-.8-.1zm.2-.5zm-1.7 .9zm.6 .9zm-2.1-1.2zm-.4 0zm-.5-.1zm.8-.5zm-1.2-1.1zm-.7-.5zm-.3 .6zm-.5-1.2zm-1.5-1.6zm-.2-.4zm-.6 .4zm.1 .7zm0 .2zm-1.4-1.7zm-.1-1.4zm1.7-1.4zm2.2 .8zm.3 .1zm.9-2.4zm1.3-.7zm-.6-2.3zm-2-.3zm-.6-.4zm-1 .8zm-.9-1zm-.5 1.1zm-1.8-.8zm-1.1-.4zm5.6 2zm2.5 7zm.6-.2zm.2 .3zm.8-.1zm.7 .3zm-.2 1.7zm.5 0zm2.9 4.9zm-.1 1.1zm.1 1.7zm.3 1zm-.5 .8zm.2 2.1zm-.3 .5zm.1 .9zm.6 .4zm-.1 1zm-.3 .4zm-.8 .7zm.1 1.1zm-.3 .9zm.5 .1zm.3 .2zm-.7 .4zm-.5 .5zm-1.9 2.1zm.1 .1zm-1.1 .6zm-.7-.2zm-.6 .3zm-.2 0zm.9 .6zm.5 .5zm.5-.5zm.1-.1zm.6 .8zm-2.5 2.7zm-.3 0zm-.1 .2zm-.6 .6zm-1.1-.9zm-.6 1.4zm.6 .7zm-.1 .2zm.3 .7zm.5-.2zm-2.4-.3zm-.3 .7zm-1 1.2zm-1.8 .9zm.8 1.7zm-.7 .2zm1.5-.6zm1-.3zm1 2.2zm-1.2 .8zm-1.7 3.1zm-1.3 .1zm-6.5-2.1zm-.4 1.6zm-6.1-1.7zm-.5 1zm-2.4 .1zm-.3-1.4zm0-3.5zm1.9 0zm0-.5zm-4.9-.7zm-.5-.8zm-.4 .1zm-.7-.4zm1.1-.6zm.5 .7zm-1-1.7zm.3-1.2zm-1.3 .4zm-.5 .4zm-.9-.4zm-.6-.2zm.4 .8zm.3 .4zm-.1 .1zm-.3 .6zm.5 .3zm-.4 1zm-1.1-2.3zm-.9 .2zm-1.1-.1zm-.9-1zm0-.8zm.6-.5zm-1-.8zm-1.2 .5zm-.6-.5zm-.3 .4zm-.6 .5zm-.6 .1zm.4-1.4zm.7-.4zm.4 .1zm.1-.4zm.5 .4zm-1.8-.7zm-.1-.9zm.1-.2zm.3-.3zm-.9-.1zm-.1-.1zm-1-.1zm-.3 .6zm-.7-.5zm.2-1.3zm-.8-.8zm-.7-.2zm-.3 .4zm-.3-.2zm-1.9-1zm-.6-.2zm-.5 .3zm-.2 .2zm-.3-.6zm-.5-.6zm.5-.8zm-1.3-1zm-1 .7zm0 .6zm-1.2 .4zm-.4 1.1zm-.1 .4zm.3 .6zm.7 .4zm-.4 .6zm-.8 .1zm-1.1-.4zm-.1-.9zm-.1-.5zm-.5 .4zm-.1 .1zm-.8 1.1zm-1.3 .2zm-.3-1.2zm.3-1zm-1 .1zm-.4 .8zm-.8 .3zm-.3-2zm.8-.7zm-.5-1.3zm-.9 1zm-.8-.9zm-.1-.3zm-1.8 .4zm-2 .2zm-1.9-2.2zm3.8-.1zm.4 0zm1.6-.6zm2.1 .9zm.3 .3zm2.3 .5zm.6-.1zm-.2-.8zm1.1-.8zm.8 .8zm.4 .7zm.3 .7zm.3 .2zm-1.3 0zm-.6-.5zm-.8 1zm.4 1.6zm-1.9-.2zm-3.9 .3zm-.2-.2zm-1.5 .6zm-.5 .6zm-.9 1.7zm-.2 .4zm1.3 .6zm.2 1.7zm2.3 1.6zm-.1 .4zm.1 .5zm.8 .6zm0-2.2zm-1.6-4.1zm6.6 1.7zm3.5 .4zm1.2-1.2zm.4 0zm0-.6zm-.1 0zm-.8 0zm-.5-.2zm-.2-1.3zm0-.2zm.1-.1zm.7 0zm2.1 1.7zm-.1 1.9zm-.1 1.1zm-.8 .5zm-.2-.7zm-1.3 1zm.1 2zm1.2 .9zm0 .3zm0 .4zm0 .4zm.6-.6zm-.1-.6zm1-.8zm.2 .2zm.8 .6zm.5 .3zm.5-.5zm-.1-.2zm-.7-.6zm-.3-.5zm.4-.3zm.5-1zm-1.1-1.1zm.7-1.5zm.4 .2zm1.8 3.6zm.6 1.1zm-.1 .1zm.5 1zm.8 1.1zm1.5 1.8zm1.3-.9zm.8 1.3zm-.1 .5zm1.1-3.3zm-1-.8zm-.5 .1zm.7-.8zm3-2zm0-.5zm.4-.7zm1.4 .2zm.9 .9zm.9-.2zm-.1-.4zm.2-.9zm.3 0zm-.2 1.9zm-.2 .6zm-1.2 .2zm-2-.5zm-.6-4.9zm1.1-.8zm0-1.7zm.3 0zm1 .2zm.6 .3zm-.1 .2zm.1-1.3zm1-.3zm-.6-1.6zm-.7 0zm-1.6 0zm-.1 1zm.5 .3zm-2.7 1.2zm.1 .9zm-2.1 .5zm-.9 .2zm-.6 .7zm-.4-1.1zm0-.2zm-.8 .5zm-1-.7zm-.2 .4zm.7-.9zm.9-.9zm.7 0zm.3 .1zm-.5-1.4zm-.7 .2zm-1.4-.2zm-.5-1.4zm-.7 0zm-.3 .7zm1.7-2.4zm1.2 0zm-.2 .8zm.4-1.7zm1.9-1zm.2 .2zm-.3-.5zm.1-.1zm-.1-.2zm.7-.8zm.8-.7zm.3-.4zm.6 .6zm.1 .7zm.2-2.1zm-.7-.2zm.2-1.5zm-.2-.5zm-.3-.1zm.8 .1zm-1.6 .5zm-1.1 .6zm-.2 .5zm0 1.5zm-.8 .7zm-1.5-1.7zm-.5-.8zm.3-.3zm-1.1 .9zm-.6 1.8zm-.3 1.4zm-.9 .2zm-.1 .4zm.4 .5zm-1.6 1.2zm-.7-1.5zm-.7-.5zm-.2-.1zm-1.7 .6zm-.4-.7zm-1.2-.1zm.3-.9zm-1 2.3zm1.2 1.1zm-.6 .5zm1.9-.1zm0-.2zm1 .1zm-.1 1.3zm-2.6 .9zm-2.8-3.7zm-1.6-.1zm0 .9zm-.5 .1zm-1.1-.7zm-1-.6zm-.2-.4zm.6-2.4zm-2.6-.5zm-1.5-.2zm.2 3.2zm13.9-2.3zm.9-.1zm.9-.5zm.1 1.3zm.7-2.4zm-.5-.4zm-.7-1.2zm2 .1zm.2-2zm.2-.4zm.2 .2zm1.9 1.5zm1 .8zm.3-.2zm.1-.6zm.1 0zm1.2-.3zm1.1-2.5zm-.4-.4zm-.5-.4zm.5-1.2zm.6 .4zm-.6-2zm-.4-.2zm-.6-1.4zm-1 .4zm-.2 2.5zm-.7 .2zm.1 .8zm1 .7zm-3.4-1.2zm7.7 2.2zm0 .3zm.8 0zm-.3-2.3zm2.2-.9zm1.1 .5zm.4 .4zm-.5 .4zm.1 .6zm.7 2.6zm.3 .8zm1.9 .4zm.6 0zm.9 .5zm1 .8zm.2-.2zm.4 1.4zm.4 .1zm-.1 .2zm.1 .2zm-1.5-.4zm-1.3 .2zm0-.8zm.3 1.6zm-1.7-.2zm-.4 1.8zm.9 0zm.3 .7zm-.4 .1zm.4 1.6zm.4 .2zm-.1 .9zm-.2 .9zm.9 0zm.5 .2zm-.7 .5zm0 .6zm-.7-.3zm2.8 .7zm-.2 .8zm1.1-1.1zm1.1-.4zm.2 .2zm.2-.4zm0 0zm-.4-.6zm.1-.9zm-.2-.4zm1.1 .8zm1 .2zm-.4 1zm.3-2.1zm-.2-.2zm.8-.7zm-.3-.8zm-.7-3.3zm-1.2 .4zm-2.5 1.6zm-.4 .8zm.4 .6zm.2 1.1zm.1 1.3zm-1.3 4.3zm-.3 .7zm.1 .3zm-.7-.2zm-1.3 .1zm-.1-.5zm-2.5 1.4zm4.9 1.6zm1.2-1zm-.2-1zm-.1-.8zm6.4-.6zm5.5-1.1zm.4-.3zm.5 .1zm.4 0zm.6 .2zm-.1-.9zm.6-.1zm.7 .9zm.7-.3zm1.2 .7zm.8 .3zm.8-2.3zm1.1-.3zm.2-.1zm1.1-.9zm1.2-.7zm-.2-1.1zm.5-.2zm.3-.7zm.3-.1zm-.7-.1zm.6-.6zm0 0zm.3 2zm.2 .5zm.4-.1zm0 .5zm.7-.7zm1.5-.7zm1-.3zm.6-.3zm-.9-2.1zm.1-.3zm-2-3.5zm-1.7-1.4zm-1.6 1zm-.6-2.8zm-.2-1.1zm-1.1 .2zm-2.2 .9zm-1 0zm0 .3zm0 .6zm0 .1zm-.1 .4zm-1.2 .2zm-.2 .4zm0-1.1zm.2-.5zm1.1-.8zm-.6-1.1zm-1.6 .1zm0-.5zm-.8-.6zm-.9 .1zm-.8-.5zm0-.4zm.9-.2zm0-1.2zm.2-.1zm0-.5zm-.5-.3zm0-.6zm.2-.3zm-.7-.1zm.3-.9zm-.4 2.3zm-1.4 .7zm0 .5zm-.7 .7zm-.3 .5zm-.4 0zm-.6-.1zm-.3 .7zm.3 .7zm.8 .5zm1-.7zm.2-.6zm.4 .3zm.2-.3zm-.1-.6zm-1 .3zm1 1.3zm.3 .4zm.3 .9zm.2 .4zm1.7 .3zm-1.7 1.6zm.1 .1zm-.2 .2zm-.5-.1zm-.2 .3zm-.6 .5zm1.6-.1zm.4 .3zm.4-.1zm.4 .1zm.8 .9zm.8 .5zm-1.5 .8zm-.6 0zm-.3 .2zm.1 .2zm-.6 .1zm-.3 .2zm.2 .6zm.9-.1zm-.7-1.7zm-.2-.8zm-1.5 2zm-1.7-.2zm-.1 .2zm-.6-.5zm-.7 .4zm-.1-.1zm-1-1.3zm.5-.4zm.5-.2zm-.9-.7zm0-1zm-.2-.9zm.3-.1zm1.1-.1zm-.2 1.3zm1.4-.2zm.2-.8zm.7-.4zm-1.6-1.2zm-1 0zm.5-1.4zm-1.4-.1zm-1.4-.1zm0-.3zm.3-1.1zm.3-1.9zm.7 .2zm.5 .2zm.3 .3zm.3 .8zm.5-.4zm.4-.6zm.9-.5zm.6-.1zm-1.7-.5zm-1.4-.9zm-1 .5zm-.1-.2zm-1.4 .2zm.9-2.3zm-1.6-.7zm-2.3 3.9zm-.7-.2zm1.4 3.9zm-.7 1.4zm0 .4zm.7 1.5zm1.4 .7zm.2-.4zm.1-.2zm.8 .7zm.2-1.6zm.5-.5zm-.1-.1zm.3 .3zm.1-1.2zm-1.8-.6zm-.6 .8zm-4.5-1.2zm-6.6 4.7zm1.1 1.4zm-.2 .2zm.8 1.1zm.1 .2zm.2 0zm-.3 1.5zm.7 .3zm1.1 .2zm.3-.1zm-1 1.3zm-.6 .4zm.3 .4zm-.6-.9zm-.4 .3zm-.9-.4zm.6-.7zm-3.3 0zm.5 2.1zm-.4 .4zm-.2-.2zm0-.1zm-.9 .4zm-.1 .6zm1 .6zm-1 1.9zm-.5 2.8zm.6 .8zm-2.9 3.4zm-3.4 5.1zm-1.6-1.1zm-.2 .1zm-.8-1.1zm-3.3 1.2zm-.4 .2zm.2-.8zm-.4-.3zm-1.2-.1zm-.4-.1zm.1-.3zm.1-.2zm0-.7zm-.7 0zm-.5 .4zm.4 .3zm-.2 .3zm.8 1.1zm.8 1zm-.1 .2zm-2.3-.7zm-.5-.1zm-.2-.2zm-.2-.3zm.2 1.3zm-.6 .3zm1.1 .3zm-.5-4.3zm1.4-.5zm9.7 8.7zm-1.3 10.8zm-.1 .5zm19.1 11.8zm-24.1 23.3zm39.2-54.4zm-.4-.7zm4.7 1.3zm.8-.4zm.1-.5zm-5.1-6.1zm-.4-.6zm-1.3 .2zm-1.2-.2zm4.1-3.1zm-.8-1zm0-.3zm.5-1zm.7 .7zm-.5-1.8zm-.3-.6zm-1 1.6zm-.7-3.1zm3 .1zm.7 .5zm.4-.9zm1-.8zm1.3 .2zm-.1 1.3zm-.1 1.4zm2.4 3.6zm1.5 2.5zm.7 0zm6.8 .6zm0 .6zm1.7 .2zm-.1 9.7zm-3.5 1.7zm-5 1.2zm16.7 4.9zm3-16zm-.9-2.4zm2.5-.3zm21.7 7.6zm-13.3 22.8zm-11.1 28.8zm11.5 2.3zm.8 3.4zm1.2 .2zm-.2 1.5zm.1 .4zm-1.3-.1zm-.9-1.2zm3.7 3.6zm.2 .9zm-1.4 .1zm-2.4 1.3zm-.1 .2zm-.4 .1zm-.1-.1zm-.2 2.9zm-.4 .9zm-.1 1.2zm.9 1.6zm.7 .2zm-.6 1.2zm-.6-.2zm1.5 1.6zm.5 .6zm.5 1.8zm-.2 .2zm-.2 .5zm-.6 .1zm-.9 .5zm-1.5-.4zm0-.7zm-.1-.6zm-.5-.6zm-.2 1zm1.4 0zm-.1-1zm-.7-1zm-1.2-.5zm-.1-1.3zm-1.3 2zm-.7 .7zm-1.3 1.7zm1.1 1.6zm1.3 1zm-.1 .2zm1.1-1zm.9-.1zm0 .2zm-.4 1.1zm.2 .5zm-1.2 .9zm2.7 .3zm1.8 2.5zm-.9 1zm1.3 1.2zm-.1 .4zm-.7 .7zm-1.6 .8zm-.2 .6zm-.1 .3zm-.4 .1zm0 .3zm.1 .8zm-.2 1zm-1.1 .4zm-.2 .2zm-.2-.8zm.1 1.9zm-.3 .5zm-1.1 .3zm-.4-.8zm-.5 .3zm-.1-.5zm-.6-1.2zm.4-3.1zm-.7-.5zm-.1-1.2zm.8-.7zm.8 .4zm1.2 2.5zm3.6 .8zm1.5 .9zm-.9 .9zm-.9 0zm-.3 .7zm-.1 .9zm1 .5zm1.5-.7zm1.6-.6zm.1 1.5zm1 .4zm.5-1.1zm1.2 1.4zm.3-.3zm.2 2.2zm-1.7 .6zm-.4-.2zm-.5-.1zm.5-.9zm-1.6 .2zm-.9 1zm-.3-.2zm0-1.6zm-1.6 1.7zm0 .3zm-1-.2zm.3-1.2zm-.8-1zm-.9 1.2zm0 2zm-.9 1.9zm-1.8-1.1zm-.2 .1zm.5-4.2zm.8 0zm-5.9 .1zm.9-5.9zm11.2-.8zm.2 .3zm1.1-.5zm0-.3zm.6-.1zm-.6-1.2zm.1-.9zm2.8 2.5zm-.3 .5zm.9-.4zm0-.3zm1.1-.8zm1.3 .2zm.4 .8zm-.1 .7zm-.4 .1zm-.9 .1zm0 .7zm-1.3 .1zm1.3 1.5zm1.2-.8zm.8-.2zm0 1.4zm.7 .8zm.5-.2zm.2-.2zm.9 .4zm1.3 .7zm.8-.3zm.5 0zm-1-1zm-.4-1.2zm.2-1.1zm-1-.7zm-.3-1.7zm1.1-.7zm1.6 .3zm.7 .1zm.4-.1zm-.7 .6zm-.7 .4zm1.4 .1zm.8 1zm.2 1.3zm-.5 .8zm-.1 0zm-.6 .2zm.2 .5zm2.2 .1zm1.3 .1zm.1 0zm.7-.2zm.9 .6zm.3-.4zm.6 .7zm.7-1zm-.6-.8zm-.5-.3zm-.2 .4zm1.5-.4zm-.1-.3zm1-.1zm-.3-.7zm0-.1zm-.2-1zm-.4-1.2zm-.3-.6zm.3-.6zm.5-.4zm-.3-.6zm.7-.2zm-1.3-1zm-.4 .2zm1.2-.9zm1.6-1.2zm-.1-.2zm-.7-.6zm-.6-.6zm-.4 0zm-1.1 .8zm-1.4-.7zm-.2-.2zm-.2-.4zm-.5 .5zm.9-1.1zm-1.4-2zm1.5-1.8zm.5 0zm.7 .9zm1.4 0zm1.1 .8zm-1.2 .7zm.4 .7zm.2 .5zm1.7 .2zm.4-.3zm.3 .2zm.1 0zm-.5 .8zm.8 .4zm-.3 .5zm1.4 .9zm.8 1.3zm-1 .3zm-.1 .7zm2.1 .1zm-.1-1.9zm.4-.3zm.3 0zm1.5 .6zm.3-1.1zm.2-2.4zm.4-.5zm.2-.5zm-1-.2zm.4-.7zm-1.2 .2zm-1.2-.1zm-.2-1.4zm-.8-.3zm.1-.5zm-.3-.5zm.6 0zm-1 1.2zm-1.1-.8zm-1.1 .4zm.4 1.6zm.8 1.4zm.9 .3zm.6 0zm4.7 .3zm.5-1.3zm1-.9zm.7-.8zm1.5-.1zm-1.6 1.9zm1 3.3zm.8 1zm.7 1.3zm1.2 1zm1 .6zm.2 .2zm-.7 .7zm.7 .3zm-1.5 .7zm.6 1zm-1.5 .1zm.1 .7zm-1.1 .8zm.4 .4zm1.1 .4zm-2.2 1.4zm-.9-.5zm-.1 0zm-1.3-.1zm-.9-.6zm-.5-.9zm-1 .7zm0 .3zm-.3 .9zm-1.1-1.2zm-1.2 .8zm0-1.7zm-.4-.3zm-.4-1zm.6-.9zm.6-.1zm.1-.6zm1.4 0zm.6 1zm.1 1.1zm.9-.4zm.9-.4zm-.3-.6zm-.4 0zm1.1 1.4zm.9 .3zm.3 .4zm-2 3zm2 1.1zm.1 1.2zm2-1.2zm-2.1 4zm-4.2-1zm-.4-1.2zm.6-.1zm-1.1-1zm-.3-1zm1.4 .5zm-2.2 .9zm-.9-.3zm-1.5 .7zm-.9 .3zm-.5-.4zm-1.5-1zm-.3-.4zm-.7 2.2zm-.7-.2zm-.6 1.2zm-1.9-.3zm-.6 .9zm.4 1.4zm.2 .5zm-2.2-2.9zm-.4-1zm.9-1.2zm1.5 .3zm.6-.5zm-1.6-3.7zm1-2zm1.1 .5zm.3 .7zm1.2-.5zm0-.1zm-.3-2.7zm.7-.6zm.1 .1zm-1.6-.5zm.1-.7zm-1.8-.2zm-.4 2.4zm.7 .3zm-1.5 .4zm-.6-.2zm-.4-1.8zm-2.1-1zm-.3 .3zm-.1-.8zm-1.8 0zm-1.4 .2zm-.9 1zm.1 .9zm-.7 .3zm-.3-.7zm-.3 0zm-.5 .6zm-.8-.7zm-.1-1.5zm.7 .1zm.3-1.4zm.2 0zm.3-.4zm1 .4zm1.8-.1zm-2.1-1.7zm-.5-.3zm-.3 0zm-.5 .4zm.1-1.3zm.6-1.7zm1.1 .5zm1.1 .5zm1.3-1.3zm.3-.1zm-.6-1zm.9-.4zm1.5 .6zm1.5 .1zm0-2.2zm2-1.7zm1.6-.5zm.6 0zm-.1-.7zm.3-1.3zm-.4-.5zm.9-.3zm.5 .2zm.6 .6zm.7 .9zm.3 .3zm-.6 1.1zm-.1 .4zm-.3 0zm1.1-.1zm.2 .5zm1.1-1zm.3-.1zm-.5-.4zm2.1 .4zm.8-1zm-.3-.2zm.8-.4zm.3 1.3zm-.4 1.6zm2.9-2.8zm1.7 1zm.4 1.2zm0 .4zm0 1.1zm.9 .4zm-1.9-.4zm3.9-2.1zm.8-1.1zm-.3-1zm.4-.2zm.8-.2zm2 2zm1.4 .8zm.3 0zm0 .4zm.4-2.3zm1.5-1.9zm.3-1.9zm1.4-1.5zm-.2-.2zm.3-1.5zm-.7-1zm-.6-.2zm.1 .6zm-1.2-.1zm1.5-1.9zm.7 .5zm0-1.6zm.5-.4zm-.3-1zm0-.1zm-.2 0zm0-.6zm-1 1.1zm.1 .1zm-.6-3.7zm-.5-.8zm.2-.8zm-.6-.1zm-2.1 6.6zm-.3 1.9zm.1 1.3zm-2.5 1.5zm-.4 .7zm-.7-1.4zm-.6-.8zm-.6-.2zm-.5 1zm.8 .7zm-.3 .5zm-1.8 .4zm-1.2 .2zm-.3-.2zm0 .9zm.1 .3zm-1.3-.6zm-1.1 1.5zm-.6 1zm-1.1-.3zm-.4-.7zm.3-1.1zm-.5-1.3zm1.1-.2zm.4-1.5zm-.6-.4zm-1.2-.1zm-.6 .7zm-1.1 2.9zm.6 .2zm-.5 1zm-.7 .1zm-4.4-.4zm-1.8 1.8zm-3.2 .4zm-.9-.1zm-.4 .8zm-1.6 .3zm-.2 1zm-.8 .1zm-.2 .9zm-.5 .6zm-.2 .3zm0 .4zm0 .7zm-1.9-.6zm-1.2 .6zm.2 .7zm.4 .9zm-3 1.1zm-.8-1.7zm-.5-.4zm-.6 2.7zm-1.2 .4zm-.8 .7zm2.8 1.5zm2.7-.2zm.4 .1zm.7 1.1zm2.3 5.6zm.6 .7zm.9 2.4zm-.5 2.6zm.6 1.5zm-.8 1.4zm1.9 .3zm.5-2.6zm.5 .1zm2.3 3.6zm-1.3 .7zm-.1 .5zm-.5 1.7zm-3.8-1.2zm0-.6zm-1.7 1.7zm-1.5 .4zm-.3 .3zm.3 .4zm-1.1-.5zm-.2-1.5zm-2.1-1.4zm-3.1 .3zm-3.6 4.9zm-.8 .3zm2.8 1.1zm-5 3.7zm-1.4 1.3zm.5 1.6zm.1 3.1zm-5.5-7.1zm14.7-16.8zm2-.9zm3.9 4.3zm7.1-4.7zm9.3 1.8zm1.2 .2zm.3 .7zm.5 0zm.5 .7zm-.4-3.9zm.2-.6zm.2-.2zm0-.3zm-.1-.3zm.7-.7zm-1.8 1.2zm-.1 .2zm-.2 .5zm-.1-1zm6.6-2.5zm.5 .1zm1.3-.5zm-.6-1.1zm2.1 0zm-.1 1.6zm1.4-.1zm1.1-12zm-3.3-2.4zm-1.4-.9zm-.3-1.1zm-2.2 0zm-.9-4.5zm0-1.1zm-.1-.6zm-1.2-3zm4.8 2.3zm2 5.8zm3.4-.5zm5 5.7zm3.1-3.7zm.5-2.9zm2.2-1.9zm3.7-.2zm1 .3zm0 1.7zm-.8 2zm-1.4-9.4zm.9-.6zm-.2-1zm-1.7 .1zm-.8 1.2zm-1.2 .4zm-1.2 1.2zm3.5-5.9zm2.5-2.3zm22.3 24.4zm.3 1.3zm-.3 .1zm.7 .2zm1.1-1.1zm.6 0zm-.1 .5zm.4 0zm.5-.1zm.1-2zm-50.3 22.1zm-1-.5zm-1.5 1.4zm-1.7-1.5zm-.7 0zm-3.7 6.9zm-9.5 1.7zm-.6-2.2zm-.4-.5zm16.7 13.2zm2.9-4.4zm-13.8-31.7zm-2.2-.7zm-1.6-5.9zm-2 0zm-.2-1.6zm1.3-.5zm1.5-1.3zm-2.4-.5zm-1-.8zm-.6-1.2zm1.4-.2zm0-1.8zm-2.2-1.5zm.1-.5zm1.3-.6zm-.7-.7zm.4-.6zm1.3 .2zm1.4 1.2zm2.9-.8zm.4-1.2zm1.3-.4zm2.3-.6zm1.9-.4zm-.4 2.8zm-1.6 .2zm1.6 1.6zm.2 1.1zm-1.1 .1zm0 .4zm-2.9 1.9zm-.9-1.7zm-2.4 .8zm-5.6-.4zm-.2 .5zm-.5 1.4zm-.2 .2zm0 .2zm-.5-.3zm-.5-.1zm.2-1.1zm-.9-.8zm.1-1.2zm-2.1 3.2zm2.5 2.1zm-.7 .9zm.1 1.1zm-1.3-.4zm-.9 .2zm-.2-.2zm.5 1zm4.2-.8zm1.1 1zm-.5-2.8zm-.4-.4zm-1-.3zm.7-8.7zm1.9-2.5zm-.1-.2zm.4 .2zm13.1 3.4zm-.1 10.3zm-.7 .9zm-1.6 1.3zm-47.4 57.5zm-5.9-2.8zm-.8-.7zm-4.1-2.7zm-8.3-139.8zm-.4-1.2zm8.7-4.4zm.3-6zm.2-1.3zm-.6-.7zm-.8-.1zm-.3-.5zm-1 .1zm-.9 .2zm.4 2.4zm2-1.2zm-6.6-3.7zm-.1 .1zm.1-.5z"/>
<path class="ps" stroke="#380a5d" stroke-width="1.0" d="M305 706.3zm1.4 .9zm1.7-1.4zm-.3 3.2zm.3 .6zm3.5 1.1zm1 2.4zm3.2-2.8zm-.7-1.9zm2.3-2.4zm0-.6zm1.1-1.5zm.5 2.8zm1.1 1.6zm1.3-2.5zm2.9 .8zm.3-2.7zm-.4-.3zm-1.6-1.5zm-1.2-1.7zm-.5 .3zm-1-.8zm2.1-.6zm.4-.2zm-.6-2.5zm-2.7 .5zm-1.3 1.1zm-3 1.1zm-.9-.5zm-.7-1.3zm-.9 2.1zm-3-1.9zm-1.2 3.2zm-1.4 .9zm5.7 2.1zm-.3 2.7zm-.5 .4zm9.7 4.4zm.4 2.6zm-1 2.1zm3.4-1.1zm.4 1.4zm2.2-1.6zm.3-.4zm1.9 2.3zm1.8-2.3zm2.5-2zm3.2 .3zm1.6 .8zm.5-.2zm-.1-1.6zm0-.4zm2.6 3zm.7 .3zm1.2 1.3zm-1.3 1.2zm-.4 0zm-.1 1.9zm-1.3 .4zm.8 1.1zm2.9-1.8zm2.5 1zm2.2-2.2zm4.1 .7zm1.2-1zm1.3 1.4zm-.2-3.1zm.8 0zm-2.8-3.1zm-1 1.2zm-.7-3.9zm.1-2.2zm1.6 .7zm1.2-2.3zm1.6-1.2zm2.6-.8zm-.7-1.2zm-1.3-1.5zm-.7 .1zm-1.8 .2zm-1.3 1.5zm.5 .9zm-1.6 .9zm-2.4 .3zm-1.3 0zm-1.2-.6zm.2-.3zm.8-.9zm.6 .2zm-.4-1.9zm-4.5 1.6zm1.8 2.4zm0 .7zm-1.1 1.4zm-1.8 1.2zm-3.4-2.7zm-3.2-.2zm-.1-.1zm-.6 1.3zm-2.2-2.2zm-2.1-.8zm-1.2 .7zm-.3-1.3zm-1.2 .7zm-.8 .5zm.4-1.8zm-.4-.5zm-.9-3.1zm.3-1zm3.1-4.5zm1.5-4.3zm-4.9 1zm-2.9 .3zm-.6 .5zm-2.8-3zm2.1-2.9zm1.5 0zm-1.7-4.3zm5.8 2zm7 2zm2.6-.1zm2.2 2.5zm2.8 1.3zm1.4 1.4zm1.5 2.3zm2.8-.4zm3 1.7zm.5-.9zm.3 1.7zm3.8-1.6zm.7-1.2zm2.8-.8zm2.2-2.9zm1.6 1.1zm.7 .4zm1.3-1.9zm.1-.3zm.9 .4zm1.3 1.8zm3 .1zm-2.7 3.1zm.9 1zm1.2 2.2zm.6-.3zm1.5 2.5zm2.2-3.1zm.7 0zm3.1-2zm1.7 1.6zm1.4 0zm2.8 .1zm.4-.1zm1.2-.2zm-.3-1.3zm-1.2-1.4zm-.2-3.5zm-2.1-2.8zm4.9-2.6zm-.1-.7zm1.3 2.7zm2.4 .1zm1.8-.6zm.1 1.4zm.5 .3zm-.3 .9zm.3-4.1zm5.5 3zm1-.5zm.9-1.4zm2.7-.4zm-1.2 3.3zm1 1.8zm1.8 .9zm.3-.3zm.8 .4zm1.6-2.9zm-.4-2.2zm2.7 2.6zm-.6 4.7zm-.2 1.2zm.9 .1zm-1.1 1.1zm-.9 2.4zm2.4 0zm-.1 3zm-1.5 .3zm.2 1.6zm.4 2.2zm.9-.2zm-3.3 .8zm-1.2-.3zm-.3-2zm-.6-2.4zm-3.3-2.1zm-3.5-.1zm-1-.6zm-1.5-.3zm-.8 1.1zm2.3 2.2zm-.4 3.5zm-.1 .9zm-1.4 .8zm.2 1.4zm.8 1.4zm-3.2 .1zm-2.6 2.8zm-3.6-4.5zm-.2-.3zm-1.8 .9zm-.4-2.6zm.2-.9zm-1.6 .3zm-1.4-.1zm-.2 .4zm-.5-.8zm-.7 1.3zm-.6 1.2zm.4 2.2zm.4 .1zm.8 .9zm1-.8zm-1.1 2.4zm-1.5-.9zm-1.4-.4zm-1.6-3.5zm1-1.4zm-.3-.2zm-.1-1zm1 .1zm1.1-.4zm1-1.6zm2.2-.9zm-1.6-1.5zm-2.1-.4zm-2 2.8zm-6.6 2.6zm-.8-1.1zm.7 5.4zm2.2 .8zm.9 .2zm-1.8 1.8zm-1 2zm-.2 1.5zm1.5-.2zm-2.1 2.7zm-1.9-1.7zm.2-2.1zm-2.6-2.2zm-1-.4zm-1.3-.3zm0 2.9zm-.4 .1zm-.2 .9zm.7 1.5zm1.1-1.6zm2.5 3.1zm-.2 .7zm0 2zm-.5 1.6zm-1.9-1.2zm-1.5 .4zm.1 1.1zm-1.7-.3zm-.4 .1zm-.4-.3zm-.4 .7zm1.2-1.7zm.2-2.4zm-2.3-6.9zm-.1-2zm-.4-.2zm1.3-.1zm0-.5zm-.6-1zm1.6 .4zm1.6-1.7zm-.3-1.2zm1-.8zm-.8-4.9zm.5-1.2zm.4-1.5zm2.9-1.1zm1.1 .7zm-2.2-9.6zm-12-7.2zm-1.6-.7zm-.1 4.2zm-.2 .5zm-1.6-.2zm-.5 1.1zm-2.8 1.1zm-1-2.1zm-3.3 8.9zm-.6 3.4zm-1.4 2.4zm-1 1zm1.1 .8zm1.6-.5zm4.7-1.7zm-7.7-2.9zm-1 .4zm-1.8 2.9zm-2.2 2.2zm-.4 1.6zm3.5 .7zm.5 1.3zm-5 3.9zm-3.8 0zm.9 3.3zm.1 0zm-.2 .3zm1.7 .2zm7 4.4zm-.2 5.4zm-2.5 0zm-1-.9zm-5.6-.6zm-.9 .3zm-2.1 1.9zm10.6 7.2zm.4 2.6zm8.9-5.6zm1.7-1.4zm.3-1zm.4-.1zm4.1-.6zm1.3-2.9zm1.8 4.4zm2 2zm-2.9 3zm7.1-2.9zm4.7-1.3zm2.4-2.7zm.9-2zm3.2 2.5zm.1 5.3zm-2.5-.1zm-3.6 1.8zm-6.3 11.6zm-2.4 3.2zm-4.1-1.2zm-2.4 3zm1.9 2.3zm29.2-19.9zm-1.1-1.8zm1-1.8zm1.3-.4zm.7-1zm1.8 .2zm.7-.6zm-.7-.4zm1.2-.3zm.4 0zm1.4 .6zm-.2-1.8zm.2-2zm-1.3-2.1zm-.7-.2zm-3 2.3zm-.4 1zm-1.9-.5zm0-.5zm0 1.6zm-.7-4.4zm1.9-1zm.4-3.1zm-.4-.5zm1.1-1.5zm-6.9 5zm-9.9-6.3zm-17.3 .9zm-.2-2.3zm-2.4 3.4zm-38 7.1zm29.4-47.7zm2.2 1.4zm8.2-8.4zm-5.9-4zm.8-1.5zm-13 3.2zm-.4-18.2zm-2.6-2.1zm-2.4 1.9zm1.6-5.2zm-2.7-1.1zm1.1-1.4zm-.9-2.6zm-2.5-2.5zm-.7 .3zm-2.1-2zm-2.5 .1zm.8-2.5zm2.9-.6zm3 1.3zm2 0zm.4-.1zm-.3 1.6zm2.1-3.9zm3.6-.6zm1.7 .1zm1.4-1.7zm-3.5-1.9zm-.3-2.5zm-3-.7zm0 1.5zm-1.2 .1zm.7 1.2zm-.5 .8zm-3.2-1.9zm.6-1.8zm-4.6 1.2zm-.4 .2zm.6 .4zm-.3 1.6zm-1.1-.4zm0 1zm-.9-.3zm-2.5-1zm3.1-1.7zm-.2-.6zm-.6-1.6zm-.8-.9zm-1.8-1.1zm-.2-.8zm-2.5 .1zm-.9-3.2zm-2.7 1.8zm-.3 3.9zm1.2 6zm-.5 1.9zm4 5.3zm-1.4 3.8zm3.7 .1zm.2 2zm2.8-.3zm-.2 2.5zm1.9 1.5zm2.5-16.1zm-.3-.4zm-3.7-9.8zm.4-.9zm-1.2-2.8zm7.6 .5zm2.3 2.1zm3.4-.7zm-1.8-2.7zm1.8-.8zm2.8-1.1zm-.6-1.4zm.9-1.4zm1.4-1.5zm-1.3-.6zm-1.7-1.1zm4.2 .1zm2.2 2zm-3.4 7.3zm.6 2zm-3.9 3.7zm5.3 3.4zm1.4 .3zm1.8 .8zm.8-3zm.4-1.2zm.4-.6zm2.7 .5zm3.7-1.3zm1.2 1.5zm-1.2 1.8zm2.6 1.4zm-3.2 2.6zm-2.2-1.5zm-.1-.3zm-5.5 3.6zm-.5 1.9zm-2.3 2zm-2.5-.1zm-.6 1.6zm-1.8-1.5zm5.7 3.7zm.4-.7zm2.2 .3zm.1 .8zm-.7 1.4zm-3 .8zm-.4 4.1zm-.7 3.9zm7.4-8zm2.2-.8zm3.3 3.1zm4.3-1.7zm.7 .7zm2 .2zm.7-.8zm0-1.6zm1.2-1.2zm1.7-.5zm1.2-2.6zm-1.1-.8zm-2.9-2.4zm1.9-2.1zm-.2-.4zm.7-1zm.8-3.3zm-.6-1.2zm1.4-.5zm.4 .6zm-1.4-2.4zm-.7-.6zm-1.1 .4zm-1.6-.2zm-.6 1.5zm1.3 1zm-3.7-3.8zm.1-1.3zm0-2.5zm-.5-2.1zm-2.3 .4zm.3 1.2zm-.8 .5zm-1.3 1.1zm-.4-1zm-.9 1zm-2.8-2.2zm5.9 5.3zm1.2 .4zm5.5-2.4zm-1.5-2.4zm.3-2.4zm2.1-.4zm2.7-.7zm2.7 1zm2.5 .2zm1.4-.4zm.6-3.2zm-2-1.3zm-.4-.1zm-.8-1.3zm-.3-.6zm-.6-1.5zm-2.1 2.5zm-1 1zm-1.4-.2zm-1.5-2.2zm-2-.6zm-.4-1.7zm-2.3 .7zm-2.3-.9zm-.7 .8zm-.6-.3zm3.4 4zm1.7 2.5zm5.6-4.9zm7.1-8.7zm9.5 9.1zm1.3 1.4zm1.3 2.5zm.2 1.3zm2 1.5zm-1.6 1zm3.8 1.4zm5.3 1.1zm2.2 2zm-.2 3.2zm.6 1.8zm2.2 1.6zm3.2 .7zm0-1.6zm-2.6-3.4zm-.4-.7zm6.7-3.8zm-13.1-9.3zm-2.2 2.8zm-3-2.6zm-.5-.7zm-8.9 11.6zm.8 3.4zm1.2 .7zm.6 0zm1.3-.7zm2.1 1.4zm.2 .1zm-1.3 1zm-1.2 1.2zm-2.3-1.3zm2.2 4.5zm-.5 .7zm1.4-.3zm-2.7 2.5zm-2.4-1.2zm-2.3 1.2zm-.6-.3zm-1.7-1.6zm-2.6 3.5zm1.7 5.6zm-3.3 3zm-.1 .4zm.6 .3zm-1.5-.4zm-4.7 2.8zm-1.8-1.1zm-1.2 .5zm-2.4 2.7zm-.6 1.6zm-.6 0zm1.9-9.8zm.3-.7zm-.4-.6zm1-.5zm.8 0zm1 .1zm-3.2-1.4zm.1-.4zm-.1-.4zm.9-1.1zm-.3-2.1zm-1.4-.4zm2-1.6zm-4.7 3zm-1 .4zm.3 .7zm1.5 .3zm-1.4 1.5zm-2.8-.9zm-4.8 .4zm-2.4-11.8zm9.8-24.3zm20.3 22zm-1.5 2.6zm4.5 9.6zm10.6-.3zm.5-.8zm2.1 3.5zm2-5.9zm-.5-.3zm1.4-1.8zm1-.2zm-2.7-.6zm.1-1.1zm-4.2-1.4zm-1-1.8zm13.5 30.1zm6.4 18.8zm1.1 1.8zm-5.7 3.2zm1.4 2.7zm-3 0zm0 1.5zm-1.2-3zm-8.6 .8zm-1.1 .6zm-.9 4.7zm4.8 17.1zm3.1-.9zm2.7 2zm3.3-.9zm-.9-1.6zm.7-1zm.6 0zm1 .7zm.9 .5zm-1-2.4zm1.2-1.6zm-10.8 9.1zm-3.8 1.8zm.7 2.7zm13.9 2.3zm.1-.7zm3 .4zm1.7 2.8zm-1.3 .6zm-.2 .4zm2.3 1.6zm1-.9zm.3-.1zm.7-.4zm-1.1 2.4zm.2 1.3zm-.1 1.7zm1.2 .6zm.7-.1zm.2 1.6zm.3 .6zm1.4-1.4zm.6 .3zm.1 1zm1.7 2.5zm.8-.5zm-.1 1.4zm-.9 1.1zm-.9 .7zm-1.6-.6zm-2.2-1.3zm-.7 .9zm-2.7-.4zm.1 2.7zm-.7 .4zm-1.3 .4zm-.9 .3zm.2 1.3zm-.3 .4zm-3.1-1zm.3-2.2zm.6-1.4zm.9-2.8zm-.1-.7zm.9 1zm-1.5-3.3zm-.2-.9zm1.2-.5zm.8 .3zm1.4-.1zm-.2-2.4zm-3.1-.3zm-.3 1.4zm-1.6 2zm-1.7 1.7zm0 5.6zm.4 .2zm-1.5 .3zm-.5 0zm-2.4 3.4zm.7 1.2zm2.2-.2zm3.1 2.3zm.6 .9zm-7 .5zm-3-.3zm-3-1.6zm.6-.9zm.2-1.5zm1.6-.6zm.3 10.5zm.6 6.9zm6.5-2.5zm11.9-6.8zm.3 .4zm.8-4.8zm0-.3zm.2-.4zm1.5 .8zm1.2 1.5zm2.1-6.9zm3.8-1.4zm1.5 1.5zm-.9 .8zm2.1-.5zm-.1 2zm-.4 .8zm-.3 1.3zm1.3-7zm.3-.3zm.3 0zm1-.5zm-.4-.6zm-.2-1.4zm-.9 .3zm0-.8zm-.7-.7zm-1-.9zm-1 .1zm-.7-.5zm.1-.7zm-1.7-1.4zm-1.1 2.7zm-1.2-5zm-1.2-1.7zm.6-.7zm0-.3zm-1.5 2.3zm-4.3 5.3zm-1-.1zm1.4 7.4zm15.6-2.2zm5.6-.3zm.3-.6zm2.3 .9zm-2.6 2zm-1.4-6.1zm.8-.4zm1.1-2.2zm2 1.3zm1.2 .1zm-1 1.2zm-.8-.2zm3.6 1.6zm.7 2.1zm2.5-.9zm-1-1.6zm.9-.6zm.3-.4zm-1-2zm.1-1.2zm.8-1.1zm-2 .4zm0-2.6zm-2.3-2zm-1.7 1.1zm.3 1.4zm-3.5-.5zm-1.5 1.6zm-.1 .2zm-1.6 2.4zm-1.6-2.2zm-2.5-.2zm-.8-.7zm1.2-1.6zm-.2-.4zm.6-.6zm-.2-2.1zm-2.4 1.1zm-1.4-.3zm-1.6-4.3zm-.8-2.4zm-1.3-1.7zm-.6 .3zm2.6-3zm1.3 1zm1.6 1.8zm2.1-2.7zm1.3 .6zm.7-.6zm-.1-.4zm.4-1.4zm1.1 1.7zm.4 0zm.7 1.4zm0 2.6zm-1 2.6zm-2.3 .8zm3.6 1.4zm4.8-1zm.3 2.8zm2.7-2.7zm.6-.1zm-.1-.8zm1.2-1zm1.8 1.8zm-1-4.9zm-1.3-.3zm.8-2.2zm1.3-.8zm-1.5-1.5zm-2.3-2.3zm.6-1.3zm-.7-1.7zm-1-1.1zm-.5 .4zm-1.5 1.4zm-2.4-1.1zm3.8 3.5zm-1.4 3.5zm-1.3 .4zm-.1 0zm.2 1.1zm.8 .1zm-.5 2.7zm4-3.2zm-4.8-2.3zm6.7-6.2zm5.9-1.2zm-.2-1.6zm1.7 2.3zm1.8-1.5zm.9 1.5zm.2 1.1zm1.1 1.3zm-2.6 2.6zm-1.4-1.7zm-2 1.7zm-.1 4zm.1 .3zm-.7-.2zm-.8 .9zm-.4 .5zm4.6 10.2zm-3.3 3.2zm-.1 2.1zm.2 1.7zm-.3 2.5zm2.4-4zm-17.7-4.2zm-9.6-17zm.9-4zm4.7-.3zm1-.2zm24.7-5.5zm6.6 .9zm1.6-1.6zm0-1.1zm.3-1.3zm-.3-1zm1.6 2.3zm-.3 6.6zm-2 1.2zm1.8 1.5zm-4-2.4zm-2.1-12.1zm-1.2-.3zm32.5 25.6zm.6 2.5zm-2.1-.1z"/>
<path class="ps" stroke="#5a126c" stroke-width="1.0" d="M307.3 621.4zm1 2.3zm5.5-.7zm.9-2zm2.4-1.4zm3 .2zm.2 1.3zm.1 .2zm2.6-2.3zm-2.2-3.6zm-1.4-.9zm-.7 .2zm-1.2 1.5zm-1.5-1.1zm-.7-3.8zm-3.3 1.1zm8.7-.2zm6.5 4.5zm.7 .6zm.2-.1zm.9 1.3zm.4-.4zm.7-.1zm-1.7-3.5zm1.2-1.1zm.4-1zm-.2-1.5zm.4-4.8zm1.6-1.1zm1.6 2.5zm2.5-4.2zm-1.4-3.5zm3.9-1.7zm.5 2.8zm2.4 .9zm.3 1.9zm1 2.2zm-5.7 5.5zm.7 1.5zm.5 .4zm-3.2 3zm.7 2.9zm.4 .3zm.8-.2zm-5.2 5.7zm-1.9-1.5zm3.8 6.1zm2.9 1zm1.7 .1zm.8-1.5zm.1-.5zm-1.4-.3zm1.1 5.2zm1.5 6.6zm4.3-.9zm7.9 2.3zm-.9 3.2zm11-5.4zm-2-6zm1.5-2.2zm2.7-2.4zm1.3-3.7zm-3.4 .2zm-.3-2.5zm1-1.3zm1.1-1.3zm-1.5-1.7zm-3.4-1.1zm-4.3-.2zm-.2-1.6zm-3.7 .3zm-3-1.2zm-1.3 2.6zm-1.3-.9zm5.2 5.3zm.6 .2zm-.8 1.7zm1.8 4.2zm-1 .8zm.5 1zm-1.4 .3zm.4 1.7zm.6 .3zm-1.6-.1zm-4.8-6.7zm-2-.8zm13.3-2.9zm1.5 2.7zm1.8 1.7zm-.8 2.3zm9.1-9.1zm.4 .4zm5-3.3zm2.8 .3zm2-1.2zm-5-5.4zm.5-4.9zm-3.7-2.8zm-4.6 .3zm-.2 5.1zm-.4 .8zm-3.5 .2zm-1.5 .8zm-1.1-.8zm-2.2-1.4zm-1.8-.2zm0 0zm0 1zm-1.6-.6zm2.6-2.5zm-1-2zm.6-.4zm-2.1-.2zm-1.7 1zm.5-4.4zm1.2-3.4zm-.5-1.2zm5.2 3.6zm-.9 2.6zm3.9-1zm5.2-2.6zm-.2-2zm8.6 5.2zm2.1 .7zm.2-.9zm2.8-.9zm-.4-.9zm2.5 8.7zm6.7-4zm7.8 9.2zm-7.4 4zm-9.2 11.3zm-2.5 3.6zm2.1 3.4zm-1.7 1.7zm3.1 2.2zm-.1 1zm-3.1 18.1zm8.9 7.7zm.9-.4zm0-.7zm2.7 1zm2.7 .4zm2-1.6zm2.2-2.8zm.8-.6zm.4-.9zm.6 1.4zm-.4 .6zm-.4 .7zm1.8-2.1zm2.9-.9zm1.8 0zm-1.1 1.8zm1.6 .5zm1.3-.8zm3.4 .2zm2.1 .3zm2.7-.2zm.4-3.6zm-.7-1.1zm-.1-.8zm-2.9 0zm0 .3zm-.3-.4zm-.8 .8zm0 1zm-.8 .9zm2.4 .3zm-4.1-4.7zm.1-4.4zm.2 0zm2.6 .9zm.3-.6zm.8 1.8zm1.5-.4zm6.6 1zm.6-.3zm1.7 .5zm1-.3zm.3-1.5zm3.6-.8zm.2 .5zm1.2-2.1zm1.5-.3zm-1-1.4zm-2.3-1.1zm-1.1 .9zm.4-3.1zm-5.8 1.4zm-3-1.1zm-.9-.8zm-3.6-1.9zm-4.2 1zm-.7 1.1zm-.1 2.5zm-1.6 1.3zm-1.4-2.6zm-.7-1.2zm5.9-7.7zm1.4-3.2zm5.2 6.1zm.4-.2zm9.4 16zm-.1 .3zm1.1 .8zm1.4-1.6zm4.3 1.5zm-2.4 3.2zm-6.1 8.2zm-6.5-2.9zm-12.4 8zm-3.6-4.3zm.7-4.3zm-.6-5.7zm-1.2-.8zm-.6-.2zm.2 1zm3.5-.1zm-6.9 14.4zm-.4 1.2zm-1.4 1.5zm1.8 2.3zm-5.1 2.5zm-.5 .8zm-1.6-2.1zm-.2 .1zm0-.4zm-3.3-.3zm-1-.5zm.3-1.8zm-.5-.9zm-2.1-.4zm.4-1.5zm-1.8-.7zm-1.9 1.2zm-.5 4zm.9 2.7zm-.9 .8zm1.8 .2zm.3 .5zm.1 .3zm1.7-1.4zm.4-3.4zm-.1 7.1zm-2.6 1.2zm.3 1.2zm-1.1 .1zm1.4 1.1zm1.6 .7zm-2.9-4.7zm-.8-.7zm-2.2-1.1zm-.7-.8zm-1.3-.5zm-.2 1.2zm-.9 .2zm-1.5 .3zm.2-1.6zm-.2-.3zm1 3.3zm.1 1.5zm2.1 .3zm.8-.7zm.4 1.6zm-2.8 2.4zm-2.3-2.1zm-1.2-.3zm-.9 .2zm.9-3.2zm-2.4-2.7zm0-2zm1.1-.2zm.9-1.1zm-1-1.2zm-.6 .6zm-.5 .6zm-.7-1.8zm4.1 .9zm2.9-5.2zm-6.9 .1zm-3.6-2.7zm0-1.8zm-4.7-.6zm-2.3 4.2zm.5 1.3zm-.2 .7zm.4 .3zm2.4 1.3zm.8-.4zm.6 2.8zm-1 .1zm1.6 1.2zm-.1 .4zm-1.8 2.1zm.1 .9zm1.4-.2zm.8 .2zm.1 .6zm.1 .3zm-1.8 .6zm1.1 1.9zm3.4 1.6zm.9-.4zm2.6 8.7zm.8 2.2zm0 1.7zm.6 .6zm1.1-.1zm-.7 1.4zm-1.5 .8zm2.9 2.9zm-.4 2.7zm.6 1.2zm3.3-1.4zm.3 1.4zm3.2-.6zm4.2 3.6zm.5 .9zm.8-2.2zm10.6 3.4zm4.1-7.4zm-.7-2.2zm-.1-.9zm-1.1 .8zm-1.9 .4zm5.9-4.4zm-.6-1.1zm-2.6-2zm2.5-8.2zm-5.2-2.3zm-3.9-12.3zm-.7-1.1zm-1.1-.4zm.1-.9zm-1.1 .8zm.5-2.7zm2.8 1.6zm.4 1.1zm.5 0zm.7-.8zm.4 0zm.7 .6zm20.4 14.4zm1.1 .6zm-1.8 2.8zm-1.9 .5zm6.2 4.7zm.6-.6zm.7-.6zm1.7 .4zm3.1-.1zm.8-1.6zm8.2 4.9zm-.1 .9zm-.2 .6zm1.3-1zm-2.6 4.1zm.2 2.8zm-.8 .4zm.2 .6zm-1.1 2.2zm-.9 1.7zm-.6 4.3zm-6.7 1.2zm-.4-.4zm-5.1 9zm1.1 1.2zm2.8 3.1zm-8.9-4.3zm-1.7 9.4zm-3.2-.6zm-6.1 2.9zm-3.9-11zm.9-.3zm3-.9zm12.2-13.9zm22.1-6.4zm2.8 9zm-5.6 10.1zm-.6 2zm-.5 .6zm0 .6zm-59.2 3.6zm-.2-1.8zm-10.4-20.3zm-3.8-5.9zm-12.6 6.6zm.6 5.2zm-12.1 1.9zm-2.8-1.8zm-.6-1.1zm-2.3-6.9zm9.1-3zm1-4.9zm2-.4zm1.6 2.3zm-7.7-7.3zm-.4 0zm-1 .6zm-1.6-2.3zm-10.4-19.6zm-4.6 3zm8-33.7zm.3-2.8zm.6-2.5zm-3.7-1.9zm.3-.9zm.6-1.8zm-3.8 1.8zm-3.3-1zm1.3-2zm-2.3 4.4zm-2.7 2.6zm7.3 .9zm9.6-34zm-.9-.3zm1.8-2.3zm25.6 13.8zm.8-1.2zm4.6 2.3zm6.6-.3zm7.8 9zm-8.5 37.1zm-5.2-.3zm-6.4 2.7zm-.9-1zm-2.6 8.8zm1.2 .9zm.3 .7zm1.2 .8zm3 8.8zm1.1 0zm-41 33.1zm-1 .4zm-2.9-1.8z"/>
<path class="ps" stroke="#7c1d6b" stroke-width="1.0" d="M318.8 669.7zm5.2-19.6zm11-15.6zm-9.5-8.1zm-3.1-.4zm-1.6 3.7zm7.7-11.5zm3.3-5.9zm6.8 4.4zm8.7-6.4zm-6.8-5zm9.4 25.5zm2.5 1.5zm-1.2 6.7zm8.5-8.3zm5.1 .2zm2.3-8.7zm3.1-5.8zm16.3 4.3zm-9.4 14.2zm5.1 3.6zm1.1-.1zm-6 16.4zm1 1.2zm-3.2 .4zm9.5-.1zm.1 1.4zm6 9.4zm-1.8 2.1zm-1.1 .6zm1.4 .7zm-1.6 1.1zm-1.9 1.5zm-1 .1zm-.5-.8zm2 2.4zm.6 1zm-1.1 .3zm-.1 .7zm-1.7 1.4zm-.9 2.5zm-1.3 1.4zm-.7 .5zm-1.4 .1zm-1.1-.1zm-1.1-.1zm0-.3zm0 1.7zm.8 .5zm-.1 1zm-1.8-.7zm-.9-1.4zm-.3-1.2zm.4-.8zm-.3-.7zm-.9 .4zm-.1-.7zm2.4-.3zm.1-.4zm1.8-1.6zm1.2 2.4zm0 .6zm-.5 0zm-.4 .1zm2-.2zm.3-1.3zm1.8 3.5zm-2.1 2.2zm3.3 .6zm5.6-7.7zm3 2.4zm1.9 2.9zm6.1 3.3zm.1 1.3zm-1.1 3.3zm-.8 0zm.8 7.2zm-.8 2.3zm-1.3 .5zm-.3-.1zm-.1-.2zm1 1.4zm.1 1.2zm-2.9-2.3zm-.7 1zm1.8 5.4zm-.7 2.3zm0 .6zm-1.3-1.1zm-2.1 3.1zm-1.7-.2zm-.5 1.2zm1.4 1.7zm.6-.2zm0 .4zm1.4 .6zm-1.2 2.1zm-1.6-1.1zm4.3 4.7zm-.5 1.2zm3.7-4.3zm2.7 .6zm-.1 2.3zm1.6 2.1zm.6 .9zm2.7 7.1zm-.7 1.5zm.8 .3zm-11.8-.2zm-.4-.5zm-.2-.5zm-4 2.7zm-17-7.2zm-.6 .4zm-1.1-3.7zm-11.2-6.7zm-6.9 1.3zm-.3-1.4zm-2.3-5zm-2.6-2.9zm-3.1-1.4zm-9-4.8zm-.8-.7zm-.6 .7zm-1 2zm.3 .4zm-2.5 1.3zm-.8-1.1zm.9-5.1zm5.7-.2zm1.7-2.3zm2-1.9zm.3-1.9zm5.9 1.6zm.2 1.7zm10.1 1.6zm1.4 .6zm.7-2.5zm1.2 5.3zm-.3 1.6zm-.2 1.5zm9.3-5.8zm.9 .6zm1.8 1zm.7 4.2zm8 1zm2.1 .4zm1 1.5zm-12.4-11.4zm-2.4-1.2zm1.6-2zm.3-4.3zm2.3 .6zm.6-6.5zm-3-.9zm.8-2.8zm-1.6-2zm.5-.8zm1.2-.7zm-1.1-.9zm-1.3-1.7zm-5.8-.3zm.2-1.9zm-3.1 .2zm-1.6-1.7zm-2.1-.1zm-.4-1.5zm.3-.7zm.7 .1zm.8-3.9zm-6.5 .4zm-.6-.2zm-1.3 .2zm-.7-1zm1.8 3.9zm2.2 2.4zm3.2 5.2zm3.1 .7zm.1-1.1zm2.2 3zm1.5-1zm-1 3zm-1.4 .8zm.4 .7zm-2.5-1.3zm.1-.7zm-1.8 .2zm-.4 .1zm-.8 2.5zm8.4 1.9zm2.8 2.1zm.4 .6zm5.7-17.9zm1.3-.4zm1.9 .6zm3.5 1.4zm11 1.6zm.4 .8zm1-2.2zm2.6 2.1zm1.2-.8zm.5-1.4zm-.6-1.5zm1.4-1.7zm-2.3-2zm2.2-2.2zm-.5-1.9zm0-1.3zm0-1.3zm1.8 .7zm2-1.5zm-.2-2.1zm3 1.3zm.5 .1zm.2 1.4zm0 .1zm2-.4zm.4 .6zm-.3 .3zm-.7 1.6zm1.3 .5zm.6 .8zm2.8-.2zm2.4 .6zm1.3-1.6zm1.4 .6zm2 1.5zm.8-.9zm1.3-1zm1 .6zm.4 .3zm-.4 .4zm0 .7zm-.6 .4zm-1.4-3.4zm-.2-1.5zm-.2-1.5zm-2.1 1.3zm-.2-.2zm-.2-1.9zm-1.4-.5zm-.2 .7zm-.4-1.2zm-.3 0zm-1.4-.5zm-1-1.2zm.1-2zm.3-1.9zm-1.9 .5zm3.5-1.9zm1.2-.7zm-.5 3zm3.1 1zm.7 .1zm1.7 .5zm-.9 1.1zm3.1 .4zm.8-1.4zm.4-.6zm-.2-.3zm1.1 .7zm-.3 .5zm-.3 2.6zm-.2 .8zm1.1-.7zm2.9-1.9zm.1-.9zm.1-.5zm.2-.6zm-.5-1zm.4-1.2zm.7-.9zm.8 0zm-.3 1.2zm.1 1.8zm-.3 1.9zm1.4 1.5zm.3-.3zm1.8-.9zm1.5 .3zm1.4-.7zm-1 2.4zm.7 3.3zm.3 .6zm.3 1.2zm-3.1 .8zm-1.2-3.1zm-.2-1.1zm1.6-6.7zm.9-1.6zm-1.4-.9zm-.7-.3zm-.1 .2zm-.7 .4zm.5-2.2zm1 .1zm-1.2-1.6zm.7-.4zm-2.1-.9zm-1.7-.2zm.8 2.5zm-4.1-3.3zm-.6-2.7zm-2.5 .6zm-2-1.4zm.5-1.6zm-.3-2.6zm-2.3 1.2zm-.8 .9zm-1.2 4.2zm.5 2zm-3.9 .3zm-2.1 .2zm-2.3 2.5zm.8 .7zm-.2 8.6zm-3.1 .5zm-.5 5zm.5 4.1zm1.2-.1zm-.5 1.6zm-1.6 .6zm-.3-1.9zm-.2-.2zm1.8 5zm2.6 2zm4.2-7.4zm1.4-5.2zm0-.3zm2.5-4.3zm2.5-4.9zm1.6-1.1zm-2-1.3zm13.1-7.6zm.3-.4zm1 .7zm2.1 1.1zm1-.6zm.5-.6zm.5 1.1zm-.3 1.1zm-.3 .2zm.1 .3zm.7 .8zm-.3 1.8zm-2.2-7.1zm2.6-1zm-6.2-1.1zm-.1 1.2zm-.8-3.4zm.1-.4zm-1-1.9zm-19 1.1zm-3 3.6zm-8.8 37.8zm-1.8 .3zm-.7 .2zm0 .2zm19 12.1zm-.6 1.6zm10.7 5.4zm6.7-6.2zm3.4 3.5zm-.2 1.3zm-.3 .5zm2.1-.1zm-1.5 8.3zm-1.8 2.5zm-.8 0zm0 .1zm0 .6zm2.1 4.2zm3.1 .7zm-8.2 2.8zm-4.1 6.1zm-.2 3.2zm1.9-.2zm-4 3.1zm-3.3-2zm-1.2-.1zm-.3 3.1zm0-6.5zm-4.7-12.4zm18.7 14.7zm2.1-.8zm2.9-47.1zm-70.1-5.2zm-.5-.1zm-.6 .3zm.5-11.6zm-10.8 2.4zm-22.3 29.7zm-.8 24.1z"/>
<path class="ps" stroke="#9e2b62" stroke-width="1.0" d="M326.3 647.5zm26.7 12.1zm.2 .6zm8.5 0zm-3.5 7.3zm-.7 4.4zm-3.7-1.2zm5.4 7zm2.4-1.8zm.9 4.4zm-1.5 1.6zm-.9 .3zm.4 .6zm1.5 .3zm-.8 2.7zm3.4 1.2zm1.5-.1zm.1-3.5zm3.8 .6zm1.8-2zm-.7-.6zm3.1 1.6zm.6-.7zm.4 .2zm.2 0zm.8-.8zm-1.3-1.2zm.5 4.2zm1.5 .6zm4.5-1.5zm-.9-3.2zm2.3-.2zm3.3-8.5zm-1.9-1.1zm8-.2zm.3-.9zm1.7-3.9zm2.3 1.6zm1.7 1.6zm-1.3 1.2zm4.7-3.2zm-.4-1.4zm.1-1.6zm.7-2.1zm1.7-.8zm.6 1.6zm.7 1.2zm2.5 .2zm2.5-.8zm.4-.3zm-.1-2.6zm3.4 .4zm1.3-3.8zm-.3-1.6zm.3-.9zm-.6-1.8zm.6-1.7zm2.6 .8zm.4 1zm-.1 1zm-.6 .7zm.8 3.6zm.5 .3zm-.2 4.1zm3.9 2.9zm3.7-8.8zm.7-.4zm2.3-.8zm-.3-1.1zm2.7-.6zm.5-.9zm1.6 .5zm1.6 .9zm-2.2 1.4zm2 2.1zm.7-.4zm-.8 2.3zm0 .4zm-.7-.1zm-1.9-.8zm-2-.3zm2.5 2.7zm5.4 7.8zm.2 2.5zm-2.3-1.1zm7.2-3.4zm-11.7-18.8zm-1.7-.3zm-1.5-1.3zm-1.1-.6zm-.7-.1zm-1.4-.8zm.9-.9zm1.2-1.9zm.4-.5zm.7 1.3zm2.7-3.2zm.7-2.2zm-1.1-.1zm-.7-.8zm4.9 .8zm.7 1.4zm-.7 .9zm1.5 .2zm1-1.2zm-.5-.6zm.5 3.2zm.4 .4zm.1 1.7zm.5 .6zm1.7-.9zm-.1-1.4zm-4.8-.5zm-2.1 .7zm1.3 2zm-1 .7zm-7.2 6.5zm0 .1zm-.4-.5zm-.3 0zm-1.8-.4zm-.2 .7zm-1.2 1zm0 .7zm-.5 .5zm.9 .3zm1.1 .2zm.3 .2zm-2.9 .3zm-.3-1.8zm.1-.2zm-6.7-4.8zm-.4-2.2zm1-1.4zm1.3-.4zm-.9-2.1zm1.8-1.7zm-1.3-1.7zm3.8 2.1zm.1 2.6zm-1.2 .2zm-8.3 2zm-1.1 1.1zm-1.2-2.9zm-2.9 1.1zm3.6-4.5zm1-6.7zm2-.8zm-3.9 17.2zm1.5 2.2zm-1.4 1.6zm2.4 1.2zm-1.3 2zm-3.5-1zm-.3-.7zm-.5 3.4zm-3.1-2.9zm-4.6 4.1zm.6 .7zm.1 1.7zm-2-1.2zm10.4 11.7zm-.5 .9zm3-.1zm4.2-17.5zm24.5-21zm1.2 .3zm0-1.8zm-1.3 .2zm-.6-2.6zm.1-.7zm1.2-1.3zm4 2.9zm3.6-.2zm.4-1zm1.2-2.3zm-65 6.1zm-2.9 .8zm-2.9 34.9zm-8.2-.5zm-9.9 12zm-1 1.5zm11.3 13.8zm.3 .4zm1.9 8.3zm6.1 .7zm4.5 2.1zm14.3 3zm2-2.9zm1-5.6zm-1.7-.6zm3.1-5.3zm-2.8 24.2zm-1.6 2.5zm-1.1 .7zm6.7-2.2zm8 10.1zm5.2-11.5zm3.3-1.3zm8.6-6.9zm.8 .4zm6.2 9.9zm1.1-24.1zm-.7-.4zm-9.4-7.1zm-32.6 42.2zm-.5 2.1zm-16.7-10.4zm-14.1-7.4zm-1.3-1.6zm-8.1 .4zm-8.5-11.9zm-8.2-.2zm1.6 11.5zm-.2-24.5zm24.8 12.2zm3.3 3.7z"/>
<path class="ps" stroke="#bf3a51" stroke-width="1.0" d="M389.4 664.3zm3.7 2.9zm2-3.9zm2.8-.2zm1.6 .1zm3.6-.9zm1.2 1.6zm.9-.1zm-.8-3.5zm.3-2zm1.4 .9zm2.6 1.1zm1.4-2zm3-2.9zm1.8-5zm-1.2-.3zm-1.8-.3zm-2.3-3.9zm-2.6-3.9zm6.2 .4zm1.1 .4zm0 .2zm1.7 .5zm2.8 .9zm.5-2zm-3-2.8zm-.3-1.5zm8.1 7.1zm2.6-.4zm.8 .5zm.3 2zm.9 .6zm.7 .9zm.9 .2zm.7-.8zm-.7-.4zm-.3-.1zm-2.3 1.2zm-2.5 .6zm.1 3.9zm1.8-.3zm.5-.1zm.5 1.4zm2.8 .2zm.9 1.4zm.2 .5zm.3 .1zm.3-2.5zm4.2-7.6zm-.1-1.1zm1.4-2.5zm1.6 .9zm-2.3-4.2zm0-1.4zm.7-1.1zm-1.4-1.1zm.9-1zm-.8-1.5zm1.9-.8zm.1 .2zm2.6 .7zm.2-.1zm.3-1.4zm-.2-.2zm.6 .2zm1-.1zm1.7 .5zm.2 .6zm-1.7 .8zm1.7-2.9zm-.7-1.5zm1.4 0zm1-.9zm-1.4-1.8zm-3.1 1.4zm.2 .7zm-.9 .1zm-1.5 7.2zm-.8 2.8zm-.4 0zm-4.2-1.1zm-.3 4zm-1.2 .3zm-2.1-1.9zm-10.2 11.6zm-.6-.1zm-.9 .1zm2.8 2.3zm-1.6 2.3zm0 3.7zm-2.3 .5zm1.7 3.2zm-4.6-1zm-8.7 10zm-.8-.2zm-4.9-5.4zm-4.8-7.3zm6.2-1.4zm-1-2.6zm1.8-.3zm25.5 13.6zm1-.4zm-.2 3zm5.9 .8zm.9-.6zm.2 .3zm.3 .4zm1.5-3.3zm.3-.2zm2.2-1.1zm-3.5-4.6zm.3-1.2z"/>
<path class="ps" stroke="#db4f3c" stroke-width="1.0" d="M364.3 683.6zm3.3-.3zm40.5-23.1zm2.3 .3zm5.9-4.7zm2.2-2.1zm-.8-3zm4.4 1.5zm-2.5 5.1zm-1.6 5.5zm10.3-8.4zm0-2.2zm3-3.5zm3.5-2.7zm2-2.5zm.8 0zm0-.3zm-.3-2.3zm-.8-.6zm-.9-3.3zm1.9-1.8zm-.3-1.3zm1.4-1.6zm1.7 1.5zm.6-.4zm2.2-1.2zm-.2-2.2zm4.1 .8zm-9.9-.4zm-8.4 13.4zm5.1 10zm.4-.2zm-.1 1.1zm-.9 1zm.7 3.5zm-1.6 3.3zm5.7 3.5zm0 3.5zm-1.7 2.2z"/>
<path class="ps" stroke="#ee6f21" stroke-width="1.0" d="M363.5 683.4zm5.9-.9zm66.2-13.6zm3.5-1zm0 3zm6.3-4zm-6-24.8zm-2.8 .1zm-.3-.2zm1.6-3.2zm3.3-4.6zm-.3-1.2zm-.1-.5zm-.7-.4zm.2-.6zm1.1-.6zm-.1-.7zm-3.1 .7zm4.1-3.9zm2.9 1.6zm1.6-1.4zm-7.4-3.2z"/>
<path class="ps" stroke="#f89310" stroke-width="1.0" d="M440.8 629.3zm2.8 0zm3.4 .7z"/>
<path class="ps" stroke="#020109" stroke-width="1.0" d="M303.8 820.8zm3.8-.1zm.4 0zm1.6-.5zm2.1 .8zm.3 .4zm-.2 2.5zm-.8 .7zm-.6-.9zm-.9 1zm-.2-.2zm-1.5 .7zm-.5 .5zm-.9 1.7zm2.8-.5zm2.9-.6zm1.4-.9zm1.8-.8zm-.4-1.5zm.8-1zm.6 .5zm1-.2zm.3 .2zm-.6-1zm1.9 .7zm.5 1.2zm0 2zm-.1 .3zm.8-.3zm-.6 1.5zm.5 .2zm.8 .1zm-.3 .6zm-1.2 1.1zm.4 1.9zm.1 2zm1.2 1.2zm0 .4zm0 .5zm.6-.6zm-.1-.7zm1-.8zm.2 .3zm0 1zm1.3-.2zm.4-.6zm-.7-.6zm-.3-.6zm.4-.2zm.5-1.1zm-1.1-1.1zm-1.2 .4zm.1-1.1zm2.2-.5zm.9-2.1zm.3 .1zm.3-.4zm1.3 2.3zm.7 .6zm1.3-.6zm.7 .6zm-.1 .1zm.4-.5zm1.5-.8zm-.6-.9zm.3-1zm-1.5 .9zm-.4-1.2zm0-.1zm.6-1.6zm-.3-.1zm-.7 0zm.5-1.3zm-.9-2.3zm.2-.8zm.2-.8zm-1.4 .9zm-.7 1.7zm-.7 0zm-2.5-1.8zm-1.4-2zm-.2 0zm.2-2zm1.8-.5zm.1 1.2zm2-.3zm1.9-1.6zm-.2-1.1zm1.3-.7zm.3-.2zm.1-.6zm.1 0zm1.2-.4zm.8 1.4zm.8-.7zm.5 .6zm.3-.5zm1.4 1.2zm.9 1.6zm.2-.1zm.6 1.3zm.3 .1zm-.3 1.6zm.7 .2zm-1.2 .5zm.7 .9zm.3 .4zm.3 .4zm.3-.7zm.4 2.5zm-.7 .1zm-1.6-.1zm.4 1.4zm-.1 1.2zm-.3 0zm1.3 .1zm.6 .3zm-.1 .3zm.1-1.3zm1-.3zm1.8 2.3zm2 .2zm.1 .4zm1.3 .4zm.2 .9zm-1.2 1zm2.5 .3zm.1 .1zm-.8 1.5zm1.4 1zm2.5-1.4zm1.9 2zm1.5-.6zm1.3 .1zm-1 1.5zm.5 1.8zm.4 .4zm.6 .2zm.3 .6zm.7 .5zm.2 1.1zm-.8 0zm-.5 .3zm-.9 .3zm-.8 .2zm-.1 .8zm-.5 .2zm-1 1.8zm.4 3zm1.3 .8zm-.8 1.1zm-.5 3.7zm1.6 3.2zm3.8-8.6zm.8 0zm1.9 1.2zm1.3-1.4zm-2-1.9zm-1.3-1.5zm1.5-1.3zm0-.4zm.2-1.7zm-1.6-.5zm-.3-.5zm-.2-.2zm-.5-.3zm-.5-.9zm1.2-.8zm.2-.5zm1 .9zm1.4 .8zm1.5 1.6zm.8 1.6zm-.7 .3zm1.5-.6zm1-.4zm-.2 3zm5.7-2.1zm-2.6-4.3zm-.7-.7zm-.1 .1zm1.2-1.3zm.6-.6zm.1-.2zm-.4-2zm-.7-.6zm-.9 .6zm2.3-.9zm.1-1.1zm.6-.3zm1.1 .9zm.1-.1zm.6 .7zm-1.1 .9zm.2 .9zm.2 .8zm.2 .4zm1.3 .8zm1.3-1.4zm-.6-1.8zm-1.6-2.7zm-1.1-2.1zm3 0zm.5-.4zm-.1-.7zm.5 .1zm.3 .1zm1.3-1.1zm1.1 1.1zm1-.7zm.8 .1zm-.5-1.2zm-.9 .2zm1.9-.9zm2.5-.6zm-.1-1.5zm1.9-.7zm.1 2.9zm.6 1.5zm.3 1.1zm-.4 .3zm1.5 .7zm.1 .2zm.1 1zm1.5 .3zm.4-.4zm-.4-.6zm.1 1.9zm1 .4zm1.5-.2zm1.6-2.6zm1-.6zm.1-.2zm-.7-.6zm-.8-.3zm-1-.5zm-.5 .1zm-.3 .3zm3.9-1.7zm-.1-.8zm.5 2.2zm0 .8zm.5 1.8zm.9 .1zm2-1.8zm1.3 1.8zm-.8-4.2zm1-1.5zm1 .4zm2 1.2zm-6 .1zm.3-3.4zm-.3-.1zm1.6-1.2zm.5-.7zm.6 .2zm-4.6 .1zm.1-1.7zm-1.3 .1zm-1.2 1.7zm-1 1.3zm-.1 .6zm-.9-1zm-.5-.8zm1-.9zm2.1 2.4zm-4.1-5zm-3.5 1.3zm-2.8 1.1zm-1.6-.2zm-.1 .6zm-.5 .7zm.6 .9zm-.6 .7zm-1-2.9zm-3.2-.6zm-.3-1.1zm-.1-1.7zm.1-1.1zm-1.2-2.4zm-1.7-2.4zm-.5-.1zm.2-1.6zm-.7-.3zm-1.6 0zm-1.5 2.3zm-.3 .5zm-.5-1.2zm-1.5-1.6zm-.2-.3zm-.6 .3zm.1 .8zm-2.6 1.2zm-1.4 1.7zm.6 1zm1.2 .5zm-1 .9zm-1.5 0zm-1.8-.2zm-1.9-.7zm.2 2.2zm.2 1zm.4 .2zm.4-.1zm1.2 1.1zm.8 .5zm-1.5 .7zm-.6 0zm-.2 .5zm-.6 .1zm-.3 .1zm.2 .7zm-1.5-.6zm-1.7-.2zm-.1 .1zm-.6-.4zm-.8 .2zm-.5-1.6zm.5-.2zm.1-1.5zm-1-.3zm-.2-.8zm.3-.2zm-1.6-.7zm-.1-.1zm-1.4 1.6zm-.1 .1zm-.2 .4zm1.1 .1zm-2.5-.7zm-2.4 .5zm-1.5-.4zm-2.2-1.3zm-.3-3.6zm-.4-.3zm-3.8 2.3zm-2.1-.4zm-.4-.3zm.6-1.2zm-2.4 1zm-1-.7zm-2.4-.5zm-.3 2.8zm-.2 .5zm2.3 1.2zm2.2 3.6zm.4 1.9zm.1 .2zm0 .4zm2.4-1.3zm-.7-1.3zm.5 5.5zm-.6 .1zm0 .1zm.2 .3zm-1.1 .1zm.9 1.1zm.9 3.2zm1.1 1.5zm3.3 .4zm.6 2.3zm.3 .1zm-.2 1.9zm-.2 .6zm-1.2 .2zm.3-1.2zm-2.3 .6zm-.4-.5zm0-.6zm-1.9 .7zm-1.2 .6zm-.9-.1zm.9-1.2zm-.5-.4zm-2.4 .9zm-2.6 .8zm.6 1.1zm-.1 .1zm1.3 2.2zm1.5 1.7zm1.3-.8zm.8 1.3zm-.1 .4zm2.8 .9zm.6 .7zm-.9 1.4zm.6 1.4zm.4 1.8zm.7 .2zm-1 1.2zm3.2-1zm1.8 .1zm.3-.5zm.7 1.2zm.7-3.1zm-.5-.9zm.8-1.6zm.8-1.1zm.7-.7zm.7 .4zm0-1.6zm-.2-.4zm-.8 0zm-2-.2zm-.9 .3zm.9 .8zm-1.4 .5zm-.9-.4zm-.2-.3zm-.2 .3zm-.3 .4zm-1.5 1zm-.4-1zm1.2 2zm.9 .3zm-1.7 .4zm1.3-4.8zm-.2-2zm-3.3 .9zm-1.6 .2zm-1-.9zm-.5 .2zm.7-.9zm-8 1.9zm-1.9 1.2zm-1 1.2zm-.2 .3zm1.2 .7zm.2 .4zm1.5 .8zm.6 .2zm.4 .7zm-.7 .6zm.4 .7zm1.8-1zm-2-2.5zm-4.6-3.1zm-.4 .3zm-.2-1.2zm-1.6 .8zm.7 1.2zm-2.3-.8zm-.5 0zm.3 1.3zm-.4 2zm.1 .4zm2.4 0zm.8 .6zm.1 0zm-1 2.7zm1.4 1.3zm.4 2.8zm4.3 1.8zm1.9 0zm.4-1.1zm2.1-.5zm5.4 1.8zm-8.7 3.4zm-2 1.7zm.8 1.1zm-8.1-10.9zm-2.1-.7zm-.8-2.1zm-.3 5.9zm4.1-13.7zm.1-1.2zm1.1 .8zm-2.5-.4zm.9-4.1zm-1-1.1zm.8-1.2zm.7 0zm-.1-.4zm1.5 0zm.3 .7zm.7 .4zm-1.2 .7zm4.5-2zm-.3-.6zm-.2-3.8zm-.9-1.3zm-1.3-.2zm-.5-2.6zm.3-.8zm-3 2.2zm-1.6-.1zm0 .9zm-.5 0zm-1.1-.6zm-1-.7zm.4-2.8zm-2.6-.4zm-1.3 3zm-.7 5zm0 7.2zm2.2 2.1zm.9-1.1zm3.9-10.2zm9-8.7zm5.9-8.1zm1-.5zm12.7 1.1zm3-3.6zm1.6 .7zm1.6 1.8zm-.4 1.7zm.5 .2zm.6 1zm.5-.4zm1 .8zm-.3 .7zm-.8 .9zm.5 1.5zm1.6 1.1zm1-3.6zm-.5-.3zm-.2-.8zm.7-1.1zm-1.1-.3zm-.6 .1zm3.1-.5zm.6-.4zm.3 .9zm0 1.2zm-.9 .6zm1.7 .4zm.8-.5zm0 1zm0 .6zm-.4-4zm-1.3-1.2zm-.7-.1zm-2.2-1.7zm-4.6 3.6zm-.6 3zm0 .3zm-3.5 6.8zm1.8 .8zm-4.3-.3zm-1.2 1.6zm-.9 .1zm1.6 2.6zm-.3 1.8zm.7 1.2zm2.1 .5zm.9-.3zm1.5-.6zm-.4-.6zm.1-.9zm1.6-.8zm.2 .2zm1.9-.3zm0-.5zm1.3-.2zm.8 .8zm-.1 .4zm.7-1.2zm.6 .5zm1.6-.9zm1.1-.5zm.4 .6zm.1 .1zm-.9 .9zm-1.1 1.3zm-1 1.2zm-.5 1zm-.1 0zm1.7 1.2zm1.3-.3zm.9-.3zm.4 0zm.6 .3zm-.1-1zm.6-.1zm1.4 .6zm1.2 .8zm.8 .2zm-2.4 1.6zm-.4-.7zm-2.5 0zm.7 1.9zm-1 1.5zm.9 .8zm1 .2zm0-.7zm.8 1.3zm0 1.3zm1.3 1.1zm1.5-1.2zm.7-.3zm.4 .7zm-.7 .4zm.1 1.1zm-.2 .6zm1.6-1zm.9-1zm-2.2-3.2zm.1-.5zm1-.2zm-1.9 .7zm-.2-.4zm-4.9 2.9zm-1.2-1.4zm-2.5-1.9zm-.9 .2zm1.4-1.9zm.5-.5zm-3.2-.9zm-1.2-1.2zm.6-1.4zm.6 0zm-2.6-.3zm-.7 1.8zm-.6 .1zm.1 1.3zm8.5-2.7zm1.6-1.6zm2.4-1zm.6 1.1zm1.2-.3zm-.5-1.8zm-.3-.6zm2-1zm1.4-1.7zm1.3 .2zm-.1 1.3zm-.1 1.5zm1.3 .5zm.5-.3zm.8 .5zm.6 1zm.7-.8zm1.5-.6zm1-.4zm.6-.3zm1.8 .7zm.5 1.5zm-.3 .3zm2.4 4.6zm1.7 .7zm.4-1.3zm1.2 3zm-.7 .2zm0 1.4zm.8-.2zm1.2-.9zm.4 .6zm.8-1.7zm.9-1.2zm.6 2zm2.1 .2zm-2.2 2.5zm-.9 2.2zm-2-.6zm-.5 1.4zm-2.2 2.2zm-1.5-3.9zm-.5-1.5zm1.2-1.8zm-1.9-.7zm-.4 4.7zm-7.5-10.5zm-3.2-.3zm3.1-4.4zm3.9-1.6zm5.7-4.4zm2.1 .2zm.7-2.4zm-1-.4zm.4-1.3zm.5 .2zm.2 .1zm-.6-1.1zm-.5-.1zm-1.5 1zm-.9-2.2zm.1-.8zm.2-.8zm-1.3 .6zm0-1.6zm-2.3 .2zm.4 1.2zm4.8 .3zm4.1 2.4zm-.9 1.2zm1 2.3zm1.5 .4zm.7-2.6zm2.6-2.8zm-18.3 2.5zm-.3 .6zm-3.3 .7zm-4.2 2.9zm-2.3 4.6zm-2.8-2.3zm6.5-12.5zm3.9-.7zm1.2-2.3zm.7-2.9zm-2-.4zm-.6-.4zm-1 .8zm-.9-1zm-3.4 0zm-10 40.2zm.6 .7zm-.3 .2zm.5 .8zm1-.4zm1.4 .5zm-5.1-.4zm-1.2-1.2zm-.4 0zm-.1-.4zm-1 .1zm-1.5-1.3zm2.2 3.7zm0 .4zm-1.9 3.5zm2.7 1.3zm.5-.9zm9.7 33.3zm3.2 9.8zm1.5 .8zm.9 .7zm-1.7 .9zm-3.1-1.3zm-6.6 .7zm-2.6 3.4zm-3.6 9zm10.7 4.6zm2.3-1.4zm5.9 1.2zm.2-1.5zm4.1-1.9zm1.1-.3zm-.4-1.2zm2.5-1.1zm2.2 2.2zm2.4-1.9zm-6.2-6.6zm-3.5-.8zm-.8 2.5zm-2.3 .8zm6.2-10.5zm-.7-1.7zm5.8-5.5zm11.4 10.4zm-1.2 2.3zm6.5 4.6zm4.9-.1zm-.4 2.6zm2.5 .9zm-.1 1.7zm3.6 3.8zm1.7-2.6zm1.4 .8zm1.4 .6zm1.6-1zm.5-2zm1.1-.6zm1.4-1zm1.2 1.8zm.4 1.6zm1.4 .4zm-1 2.2zm-1.1-.4zm-.1 1.8zm-2 1.7zm-2.1 .8zm.1-2.2zm5.1 2.4zm5.7 .3zm-.8 2.8zm2.6 4.2zm0 .2zm1.6-1zm2.8-1.1zm.4-.2zm0-.3zm.1-1.4zm1.2-2.9zm.2-.7zm1 .7zm.4-.7zm1.6 1.5zm2.1-1.3zm-2.3-2.1zm1.5-2.2zm1.1-2.1zm2.8 0zm-.6-2.3zm-.6-1.1zm-3.7-2.1zm-2 .7zm-2.4 1zm.1 .7zm-1.1 0zm-.5 2.4zm.4 .5zm-3.9 1.5zm-.8 2.6zm5.4 2zm4 5zm4.6-1.2zm3-3.2zm1.9 1.5zm-1.6-4.1zm-2.4 .6zm4.7-4.4zm1.9 .7zm1.7-4.8zm.3-2.3zm.2-.3zm.9-.7zm-1.9-1.6zm.3-4.3zm4.1 3.7zm1.7 0zm2.8-5.9zm.6-.6zm-18 7.1zm-3.7 .6zm-2 .7zm-6.4 3.1zm-2.9 1.7zm-1.9 .3zm-.6-1.8zm1.2-.3zm-.1-.4zm-3-1.2zm-.9 2.3zm-3.2-4.7zm-.8-.2zm-1.6-.7zm-.5 2zm-2.1 3.5zm-4.4-2.6zm-1-1.7zm-1.3-.8zm.5-1zm4.4-3.9zm-.7-1.4zm-10.7 16.8zm-6.6 2zm-1 5.1zm-4-3zm-5.8 5.5zm-1.3 2.5zm.2 2.5zm1.7 1zm-3 1.6zm.1 3.6zm1.8 1.7zm2.1-1.8zm1.6-2.9zm.6-1zm.6-4.5zm1.8 .2zm2.7 2zm1.8 2.9zm1.7 4.8zm.3 .8zm-.1 1.5zm2.6 3.5zm1.3-1.3zm-3.1 2.2zm-3.5-.2zm-1.9-3.1zm-3.6-.6zm-5.2 4.1zm-1.9-3.4zm-3.1 .5zm-.3 1zm.1 .5zm-1.9-2.1zm-1.5-4.3zm-.5-2zm-3.8 5.5zm-2.2 .5zm-1.9 .9zm-1.7-.6zm-.1 3.5zm3.5-1.7zm-2.7-5.4zm-3.6-3zm-3.7 4.1zm-.5 0zm-2.1 1.3zm-.3 .9zm1.8 3.8zm.4 1.1zm.8-1.8zm-6.1-6.5zm-.4-.7zm-5 3.1zm-4.8-3.4zm.7 11.7zm22.7 18.6zm1.5 .2zm.2 .6zm.4-.2zm11.3-20.5zm9.9 3.7zm7.2-.5zm-1.4 5.2zm2 .6zm4-1.8zm1.4 2.1zm2.5-7zm6.1-6.1zm3.3 1zm-.5 1.2zm3.9-.6zm-1.1-5.1zm.8-3zm-.3-5.7zm-.6 0zm3.2 .4zm.8-3.1zm-.4-1.7zm-3-.6zm-5.6-3.2zm-.6 .6zm-2.4 0zm-2.1 .3zm-1.7 .7zm2.7-4.1zm-3.5 10.1zm-2.3 1zm4.1 7.6zm5.1 .2zm.2 .4zm-.1-5.1zm12.5-4.3zm4.2-.6zm.8-.8zm4.4 1.2zm3.6 3.2zm2.7 1.3zm.5-3.4zm2.8-.8zm.8-1.7zm.2 5.2zm-.6 1zm-.2 2.7zm-.3 .4zm-.5 1.2zm-4.2 1.6zm-6.5-.2zm-1.2-.2zm-.2-2zm2.1-2.9zm-4.2 6.5zm-3.4 0zm-1.4-.4zm23.9-6.1zm7.5-15.3zm31.7 4.3zm.9-2.6zm-105.9 2.2zm-5.3 .4zm-.5-.1zm-1.2-1.5zm-33.7-9.8zm-4.6-3.4zm-1-2.9zm1.9-1.5zm1.2-.6zm.7-2.2z"/>
<path class="ps" stroke="#150a35" stroke-width="1.0" d="M305.7 823zm.9-.7zm2.9 .1zm.1 .3zm1.7 0zm2.1 1.8zm-.9 1zm.7 1zm.3-.1zm0 1.2zm1.2-.1zm1.3-.1zm.4-.1zm.5 .4zm0-1zm.2-.6zm.7-.5zm-.1-.5zm.4-.2zm.1-.4zm.1 .9zm1 .2zm.1-1.5zm1-1.3zm1.3 .9zm-.5 .8zm1.5 .7zm.3 .4zm.3-.1zm1.8-.2zm1.2 0zm.2 1.1zm-.7 .2zm-.5 .7zm-1.4 1.1zm-3-.5zm0-.6zm-.6 .4zm.2 .9zm.3 .4zm.2 1zm.2 .7zm-2 1.4zm-1.8 1.7zm-.2 .5zm.4 .2zm.4 .7zm0 1zm1.2-1.3zm1.8-1zm1.2-.5zm1.3 .3zm.7-.2zm.3 0zm.1-.1zm-.3 1.5zm1 1.5zm-2.3 .2zm.1 .8zm-1.2-.5zm-.9 .3zm-.2-.4zm-.7 .3zm.3 3.5zm-1.9 1.2zm0 .8zm-1.5-1.1zm-.4-.4zm-.3 .3zm.1 2.2zm1.9 1.5zm4.4 2.2zm-.5 2.3zm2 .1zm.5 2.1zm-3.9 .3zm-1.2-.3zm6.2-5.2zm.8 1.1zm2.3 2zm.3 .2zm1.3-2.7zm4 .5zm.3-3.7zm.4-.2zm.1-.8zm.3-3.3zm-1.8-.5zm-.3-3.1zm-.8-1.2zm.5-1.2zm.1-.5zm-.1-.3zm.6-.5zm2 1zm-.6 1.4zm1.9 .8zm-.1 .7zm.2 .5zm-.6 .2zm-.2 .1zm.8 1.5zm1.4 .2zm.7 .1zm.4-1.3zm-.4-.2zm.1-.2zm-.2-.5zm0-.4zm1.1 .2zm0-.9zm-.5-.9zm0-.6zm.3-.6zm-1.3 .3zm-.5 .4zm-.8 .7zm.6 2.4zm2 3.6zm1 .5zm.8-1.7zm2.2-.8zm-.7-1zm.4-.2zm.1-.8zm-1.2-.5zm.8-1.1zm.1-.7zm1-.8zm.2 1.6zm.6 1zm.6 0zm1.4-1.8zm-.1-1.7zm-.3-.8zm1-.3zm.3 .1zm.8-.7zm1.6-.8zm0-.8zm-1.7-.4zm-1.8-1.9zm-.8 .3zm-.5-.8zm.1-1.4zm.6-.6zm.6-.5zm-.2-.5zm0-.2zm-1-.8zm-.2-.1zm.4-.2zm.6-1.1zm1 .1zm.4 .4zm.5 .4zm.9-.9zm1 .1zm.7 .9zm-.3-2.3zm-.7 0zm1.5-.8zm.2-1.1zm-.1-.3zm-.3-.8zm.3-1.6zm-1.5 .5zm-1-1zm-.8 .4zm-1.3 .1zm-.4 .1zm.4 1zm-1.3-.1zm-1.7-1.8zm-.1 .1zm-.3-.3zm-.7-.2zm-.4 .3zm-1.3 .2zm0-.8zm1.8-.7zm.2-.2zm-2.1-1.1zm-2.5-.4zm-1.7-3.2zm.6-.7zm1.1-.2zm-2.1-1.1zm-1.8 .1zm-.4 .7zm-.8 .9zm-1.3-.6zm-.9-.7zm-.8-.5zm.8-1zm-2.2 1.2zm-.7 .2zm-1.6 .2zm-.8 3.3zm-.6 2.2zm-.8 1.5zm1.9 .2zm.8-.7zm1.7 .1zm1.1 .3zm.2-.6zm1.5-.8zm.7-.3zm-1.3-1.2zm.9-1.4zm-1.3-1.5zm3.8 1.5zm-1.5 4.5zm.1 .3zm-.7-.2zm-.5 1.5zm.9 .1zm.6 0zm.6 2.1zm.9 1.5zm2.3 .1zm.5 .4zm.4-1.6zm2-.2zm.4 0zm0 1.6zm.3 1.1zm-.6 .5zm-.4 .5zm.8 .9zm.7-.2zm.2-.7zm.5 .1zm.9-.2zm.6-.3zm-.1-1.4zm-.2-1.1zm-.4-.5zm.4-.9zm2.1 3.1zm1.3-.1zm1.3-.9zm.4 4.1zm.9 1.5zm3.7-.8zm1.2-1zm1-.3zm.1-.2zm.1-1.1zm.6 .1zm.1-1.1zm1.1-.3zm.7 .5zm1.1 1zm-.1 .8zm.4 .7zm.5-.5zm-1.7 1.5zm-.6-1.2zm-1.9 .9zm1.3 2zm.4 1.6zm.2 .9zm-.7 .6zm.3 1zm1 .8zm1.2 .5zm.1 .3zm0 .2zm.1 .3zm0 .6zm.5 .5zm.4 .5zm-.8 0zm-.4 .1zm-.3 .5zm-.2 .2zm.3 .8zm-1.3 1.6zm-1.7 .5zm-1.2 1.1zm-1.3-.7zm.1-.4zm-.7-.4zm-.9-.1zm-.4 .2zm.1 .5zm-1 .4zm-.2 .1zm-.2 1zm1.1 1zm.7 .6zm.1-1.3zm-1.8 1.4zm2.8 1.4zm.2 1zm-.6 .7zm1.8-1.3zm-.5-1.7zm.7-.8zm1.6 3.6zm-.6 .5zm1.5 1.4zm.8-1zm4.1 1.1zm.4-4.4zm-.5-.6zm-1 .3zm2.8-.6zm1.5-2.7zm-1-2.5zm.9-.3zm-.8-1.7zm-.9-.2zm.1-.9zm-.3 2.3zm-.3 .7zm-1 1.2zm-3.6-3.6zm-.7 .7zm-1.7-.5zm-1.2-1.9zm.9-.5zm-2.6 .7zm-.3 1.2zm-.8 .2zm-.4-.2zm-.2-1.1zm.3-.7zm-1.1 1.2zm.5 1.9zm.1 .5zm-.1 .4zm-.6 .7zm1 1zm1-.5zm.2-.1zm.6 .1zm1 .1zm-2-1.3zm0-1.1zm.9 .1zm-4.8-.6zm3.9-4.5zm3.5-.9zm3.3 2zm.8-1.3zm0-.3zm.4 .4zm2 .8zm2.5 .1zm1.4 .1zm0-.9zm.8-.6zm.9 .7zm.6-.8zm-1.4 1.6zm.1 .3zm.3 0zm.4 .4zm.3-.1zm.3 .5zm.1 1.4zm.8 .9zm.7-.8zm-3 0zm6.1-1.5zm1.3-.7zm.2-.6zm.1-.2zm-.3-.7zm-.6-.4zm1.1-.3zm.5 .6zm.4-.2zm.7 .1zm.3-.4zm.2 .9zm-.6 .8zm-.1 .2zm2.9-.4zm.4-1.5zm.9 .1zm2.2-.7zm-.2-.6zm.2-.1zm1.4 .2zm.3-.9zm.1-.5zm0-.6zm.8-1.7zm.5-1zm-1.7-.5zm-2.6 1.3zm-.8-.2zm-.2-.6zm-.2 1.2zm-1.1 .7zm0 .1zm-1.3-.1zm-.2 .9zm-1 .2zm-1.4-.9zm-.3 .3zm1.2-1.1zm-.4-.5zm-.6-1.1zm0-.9zm-1.3 .7zm-.6-.1zm-1.2-.7zm-.2 1.3zm.1 1zm.7 .1zm.4-3.3zm-.7-1.3zm.3-.4zm-1.4-.7zm-1.5-.7zm2.7-.7zm4 .2zm.8 .2zm-1-2.3zm1.9-.8zm1.6-1.1zm1.2 0zm.9 1zm.5 .8zm-.4 .7zm1.7-.5zm.4-3zm.4-.6zm-.8-1.5zm.7-.6zm-1.7 .3zm.6-1.9zm-2.4 .4zm-.2-.9zm-.5-.6zm-1.7 .6zm.3 .6zm-.5 .7zm-.7 1.7zm.2 1.3zm1.2-1.3zm-2.9 .5zm.2-3zm.1-.6zm-1.4-.7zm-.5-.4zm1-.2zm-1.4 1.5zm-1.1 0zm-.5-.8zm.6-.4zm-2.2 3.1zm-.2 .5zm-1.1-.3zm-.4 .6zm.6 .9zm-2.1-1.2zm-.9-.1zm-.4-1.5zm-1.4 1.5zm-1.2-.3zm.3-.6zm-.4-.1zm-1 .9zm.2-2.1zm-.3-.7zm.1-.5zm-.7-1zm-.7-.7zm-1.6 .8zm-.8-.1zm-.3-.4zm-1 .1zm-.1 .2zm.9 .8zm1.9 .1zm-.4 1.8zm-2.4 .7zm-.9-.8zm-1.2 .3zm-.8-.9zm-.9 .4zm.1 .6zm-.8 .6zm.7 .4zm.3 .4zm.3 .5zm.2 .8zm.8 1.3zm-.7 .8zm-.2 .1zm-.5-.1zm-.2 .4zm.4 .3zm-1 .2zm-.4 .7zm1.8 .3zm1.4-.9zm.3-.7zm1.8-.7zm.2-.5zm.7 .5zm.5-.7zm.1-.5zm0-.6zm0-.3zm2.1 3.1zm2.5 .1zm.5-.3zm.9-.1zm.7-.9zm1.7 1.3zm-3.5 1.9zm1.6 3.1zm.1 .8zm-.3 .1zm.2 .3zm1 .9zm-.5 .4zm-1.3 .3zm-1.2 .7zm-1.3 1zm2.8 .3zm2.1 2.6zm7.5 1.1zm4-.9zm2.1-.1zm.4-.9zm-2.3-2.9zm-1.8 .8zm-.2-.2zm-.2-2.3zm8.9-1.5zm.3-.5zm.6-.5zm.3-.5zm.1-1.1zm2.3 .2zm1.4 1zm.6-1.1zm-2.1 1.9zm.6 1.5zm-.8 1.8zm-1.1-1.1zm-.8-1.5zm2.5 4.3zm-.6 .6zm.9 .7zm1.9 .3zm0 2.1zm3.2-1.4zm0-1.5zm-1.9-1.8zm-1.7 .3zm1-2zm-.4-.6zm3.5-1.1zm2.8 2.8zm.4-5.6zm-12 10.2zm.1 .6zm-1 .2zm.3 1.7zm-1.2 .5zm.3 .6zm-4.4 1.8zm-.5 .7zm2.6 2.8zm-4.4 6zm1.4 4zm4.2 .7zm11.1 9.6zm-8.7 11.6zm-9.8-2.9zm-11.7 1.6zm-5.2-.3zm-6.4 2.7zm-.9-1zm-1.4 9.7zm.3 .6zm3.1 .2zm1.7 .6zm.2-.7zm2.6 2.3zm2.3-1.3zm-.9 3.6zm.6 1.4zm-.1 .3zm.5 3.1zm.2 .9zm-.7 2.4zm2.1 3.5zm0 .2zm-.3 .8zm-.3 2zm-1.1 1.2zm-2.2 1.4zm-.4 2.5zm1.1 2.3zm-1.5 .5zm-2 .4zm.7 1.3zm-1.8 1.2zm.2 3.3zm1.4 1.4zm.3 1.3zm.5 .3zm-.1 .2zm.8 .1zm.2 0zm-.3 1.2zm-1.5 .1zm-1.2 .2zm-.6-.3zm.3 2.5zm1.8-.1zm-2.5 1.8zm.7 2.3zm-2.5 0zm-.2 .3zm-1.4-1.4zm-.9 .6zm.9 2.4zm-.7 .8zm.5 2.1zm.9-.2zm1.7 0zm.7 2.1zm.6-.3zm.4 1.8zm.1 0zm-2.1-.5zm-1.3-.5zm-.2-.8zm-1.9 2.8zm-.3 .5zm-2.3-.2zm-.4 .4zm0-1.1zm1.2-1.2zm-1.3-.8zm-1.7-2.2zm-.8 0zm-.5-.1zm.2-1zm.8-.2zm1.6-1.8zm1.5 1.8zm-1.2-4.7zm.9-2.4zm.7 0zm2.1 .7zm2.4-.9zm5.3 4.8zm.8 1.8zm-.3 1.1zm-.9-.5zm2.8 .6zm1 1.2zm-1 1.1zm1.6-2.6zm.1-.3zm-1.1-1.2zm.8-.9zm.3 .3zm-.6-.7zm.2-1.6zm-1-1.4zm-.1-1.2zm0-.6zm.9-.3zm.8-.4zm.7-1zm-.8 2.4zm.5 1zm.4 .1zm1.4-.2zm1.5 1.1zm.3 .3zm1 .9zm.6 1.2zm.7 2zm.6 .1zm-.4 2.8zm-.1 1.4zm-1.4 .4zm-.4-.1zm-.6 .6zm.1-1.5zm-.4-.7zm-2.4-.6zm2.5-3zm-1.9-2.2zm-1.1-.1zm4.4-2.6zm2.2 .6zm-.2 1zm.5-3zm-.5-.9zm-2.2-1.2zm-.3 .4zm-1.2-1.8zm-.3-.9zm2.8-1.7zm.2-1.3zm1.5 0zm.2 1.7zm2.7 .5zm-.1 1.2zm.2 1.4zm1.2-.2zm2.6 .7zm1.1-.1zm-.4-1.7zm.5-1zm.7-1.4zm-2.6-.5zm0-1.6zm-.9-.2zm-.6 .3zm-1-.1zm-.6 1.7zm.6 .3zm.7-.3zm-3.4-2.6zm-2-.9zm-.8-1zm.9-1.1zm.4 .2zm.2 .1zm1.1 .3zm-.7-1.6zm1.4-2.2zm.4-.8zm1.2-.7zm2.2 1.8zm.2 .5zm-1.1 1.5zm-1.8 2.1zm4.3 .2zm2.1 .6zm.5-1.2zm.8 1.5zm1.8 1.2zm.6 .5zm1.1 .2zm.9-1.3zm1.1 2.9zm2-.9zm.1-1.1zm.4-.6zm0-1.7zm-1.5-.9zm-2.3-.8zm-.2-3.3zm-1.9-.2zm-1.3-.9zm.4-.8zm1.9-.2zm2-.4zm-1-1.7zm-.6-1.4zm-1.5-.8zm1.1-1.4zm-2.9-1zm-.6-2.3zm-.7-1.7zm-.8-.7zm-.1-2.2zm2.1 .8zm.1 .3zm1.7-1.4zm1.8 1.1zm1.1-.3zm1 1.6zm.8 1.3zm-.3 .3zm2.4 2.3zm0 .8zm-1.1 .2zm-.4 1zm-.9-.2zm2.3 1.1zm.5-.6zm1.7-1.7zm-.3-.6zm-.4-1.3zm-.5-2.6zm.6-2.3zm.5-.7zm6.5 2zm.2 3.4zm-.9 1.9zm1 .6zm-2.2-.5zm-.2 .1zm-.9-1.6zm-2 3.7zm1.7 1.8zm-.1 .1zm0 .7zm.5 .2zm-.2 1.4zm.4 .9zm-.9 1.4zm1.5 1.2zm-.1 .5zm-1.4 2.2zm-1.6-1zm1.9 3.1zm.7-.1zm1.2 .6zm.1-.1zm1.3 .1zm1-.6zm.3-1.2zm.2-.2zm.4-.4zm.3-1.4zm.9-1.5zm1.1 0zm-.1-.5zm.7 .2zm-.3 1.1zm.1 2zm3-.3zm1.5-.2zm-.5-1.1zm1 0zm.5-.2zm.8 1.3zm.4-.2zm-.5 1.9zm-1.4 1.3zm-.5-1zm.1 2.1zm.8 .9zm1.9-.5zm1.4-2zm.8 .7zm.8-.5zm1.5-.9zm-1.7-2.4zm-.7 .4zm-1-2.3zm2.2-1.6zm-.4-.5zm-.3-.6zm0-.9zm-1.7-1zm-.5-.8zm1-.8zm-.6-.5zm-.9-1zm-.9-1.3zm-1 .7zm0-2zm-1.2-.1zm-1.3 1.4zm-1.4 .4zm-.2 2.1zm.7 1.9zm2 1.4zm.2 .8zm-1 .2zm-.6 .8zm1.1 .4zm1.8-1zm0-.6zm-5.1 1.2zm-4.3-3.4zm-1 .7zm-.9-2.6zm-4.6 1.6zm-2.3-.2zm.2 1.7zm0 1zm.8 .2zm-1.3 3.2zm.8 7.4zm.2 .2zm.7 .8zm-1.9-.2zm1.4 2.1zm0 .9zm1.8-.4zm.5-1.7zm2.5-.6zm.1-.7zm.2-.7zm-.5-.2zm-.1-.9zm1.2-3zm2-1.1zm3.2 4.7zm-2.6 1.3zm-2.2 2.1zm.2 .9zm.5 1.9zm1 1.5zm.2 1zm.4 .8zm-1.6-.2zm-.8-.6zm-1.1-.6zm-.8-.5zm-.1-.1zm-.2-.5zm-.5 .8zm.7 .6zm-.2 1.6zm.5 .9zm1.4-.2zm1.2-.3zm-1.1 2.5zm.6 .9zm-.4 1.7zm2.2 .4zm.6 1.9zm-1.4 .4zm-.3 1.2zm-1.5-.6zm-.3-.1zm-.2-1zm-1.8 .9zm-1.2 1zm.1 .8zm-.3-2.8zm-.3-.6zm1.7-1.6zm-1-3.9zm-.3-5.1zm1.8-1.6zm5.7 1.5zm.7-.5zm.2 1.8zm1.7 .7zm.8-.7zm.6 1zm-.5 1.1zm.4 1.6zm.7-.3zm.5-.5zm1.1-.4zm.3 0zm-.1-1.3zm1.3 .1zm.3-.6zm-.2 1.6zm.1 1.1zm-.3 1.8zm.8 .7zm-1 .5zm-.2 .3zm.2 .3zm-.6 .3zm-.3-.9zm-1.5-1.1zm.4-.8zm-.5-.3zm-2.4-.6zm-.1-.2zm-.8 .8zm-1-.8zm.2 4.3zm1.9 .6zm.7 .3zm.8-.3zm-.2 1.8zm.9 1zm1.3-1.1zm-.2-1.4zm.6-.3zm2-.7zm.6 .9zm-.1 1.3zm2.5 1.6zm.9 .6zm-.4 1zm-1.2 .3zm1.9 .9zm1.5-.1zm1.9-.5zm1.6 .3zm-.4 1zm-.6 .4zm.6 1.2zm.5 .3zm1.2-.2zm.5-1.2zm.9 .4zm-2.1-3.5zm-.7 .3zm-1.1-1.2zm-.2-.1zm-.3 .1zm.3-1zm.8-.1zm-.1-.8zm2-.8zm.9 .4zm.4-.2zm-1.5-1.6zm.7-.9zm.4-.4zm.3 .2zm.4-1.9zm.8 0zm.8 .3zm2.1-1.3zm.1-1.2zm1.3 0zm.5-.6zm.1-.3zm.9 .6zm.9-.1zm.6 0zm.6 0zm.6-.4zm.8 1.4zm-.1 .6zm.6 .5zm-1.1 .9zm-.2 .9zm-1.7-.5zm.9-1.2zm.4-.5zm-1.8 .2zm-1.8 .4zm-.4 .4zm-.2 2.6zm.2 .5zm1.2 0zm.4-.5zm2.1 1.6zm.4-.2zm1.7-1.1zm1.2-.3zm1.3 .6zm-.5-1.8zm.7-.4zm.7-.2zm-1.5-1.1zm1.7-2.3zm-.2-.6zm-.7-1.7zm-.3-2.5zm.1-.7zm-.1-.6zm-.2-2.5zm.6-.7zm-2.2 .9zm-.1-2.2zm-1.3 0zm.1-1.9zm-1-1.5zm-1.8-1.4zm-1.2 .1zm.5 1.3zm.8 2.8zm-.6 .7zm-.7 1.5zm-.1 .2zm.8 1zm-1.5 1.8zm.6 .5zm1.4 .1zm.1 .4zm1.4-.3zm.1 1.1zm1.1 1.8zm-2.3 .1zm-.2 .1zm-.2 .4zm-1.7-.6zm-2.2 .6zm-1.9-1.9zm0-.5zm-.3-.3zm.3-1zm1.3-1zm.4 .7zm.1-1.8zm.9 .1zm-.6-1.1zm-.3-1zm-.9 1.2zm-.1 .6zm-3-1.2zm-.5-.3zm-1.4 1.9zm.6 1.2zm1.3 1.1zm1.1 1.3zm-1.2 1zm0 1.8zm-.7 0zm-.6-.5zm-.8 1.2zm1.3 1.7zm0 .6zm1.8-2zm.7-.4zm-3.7-2.5zm-.9 .1zm0-1.1zm.4-.1zm-2.6-1.1zm-.4 1.2zm-1.1 .6zm-1.2 .7zm-.4-.8zm-1.3-.7zm-.6-1zm-1.1 1.3zm-1.5-1.4zm-.7-.2zm-.6 .4zm.2 .3zm-1.1-.3zm0 .9zm-.3 0zm.5 .3zm.6 .8zm.1-3.1zm-.5-.9zm-1.1 .8zm-1.7 2.2zm1.9-5.8zm8.2 3.2zm.7-.1zm.1-1.4zm-2.2 6.2zm-.2 .4zm-.2 1.4zm-1 .1zm1.7 .8zm.4-.5zm.6-.5zm-.4 1.9zm.8 .6zm.4-.7zm1.2-.1zm.1 .3zm-.6 1.1zm1.5 0zm-1.1 2.1zm-.6-.4zm-1.7-.2zm-.6-.5zm-.6 .9zm1.1-2zm3.4-3.7zm-1.3 9zm0 1.3zm5.6 .5zm.5-.5zm3.5-.4zm0-1.2zm1.3 1.9zm4.2 1.3zm1.8 .1zm0-.6zm.5-.5zm.6-2.1zm3.1 .9zm2-1zm.1-5zm.6-2zm-1.2-.1zm1-2.9zm2.9-.6zm0-5.3zm-2.7-3.3zm-.8-1.5zm-1.7 .1zm-1.1-1.3zm.2-.4zm-1.4-.8zm.9-.9zm-.2-1.5zm-1.4 .5zm.2-2.1zm1.3-3zm1.3 .8zm.3-.1zm2.3 2.1zm3-1.2zm.3 .3zm.7-.6zm-1.5-.6zm.9 2.6zm.4 2.7zm-.3 2zm-.3 .9zm-1.3-.1zm-.7 .6zm-2.3-2zm-3.3 2.9zm-4.5 .4zm-5.2-1.2zm-.5-1.7zm-2-.4zm-.6 .7zm-.6 0zm-.9 .4zm0-1zm.2-1.1zm-.3-.1zm.6-2.4zm1.1 .2zm.6-1.8zm-1.7-.3zm-.7 .5zm-.2 0zm-1-1.1zm0-.6zm-1.6 2zm-1.3-2.1zm-.8-2.7zm-1.9 .4zm.1-2zm3.2-.8zm.4-.4zm2.8 0zm.5-1.8zm1.9 5.3zm2.4 .6zm1.3-1.2zm.4 .4zm.1 2.1zm.3 .1zm-.4 .4zm-.7 1.1zm-.3-.2zm2.2-.1zm2 .7zm.9-1.3zm-.2-.9zm0 4.1zm-4.3 .5zm-3.3 5.2zm-.3 .1zm-4.4-5zm-2.2 1.2zm-13.2-13.6zm2.1-3.8zm.6-1.5zm-3.4-12.1zm8.4-7.7zm10.7-13.8zm9.8 3.4zm16-16.8zm-33.9-3.2zm-25.4-27.7zm-18.1-2zm-2.4-2.5zm-2.5-.9zm1.8-3.4zm.8-1.1zm2.1 2.3zm-5.6-2.1zm-1.8-.7zm-5.2 6.3zm.2 1.2zm.5 1.4zm.3 .8zm-2-.6zm-.4-1.8zm-1.1-1.4zm-.1 0zm-1.1 2.1zm-.9 .5zm.2 1zm-1.2 .3zm-1.1-1.8zm-.4-.1zm-.2-.3zm-1.2 .5zm2.5-1zm-1.4 3.9zm1.1 1.4zm-1 1.2zm-.1 1.3zm-.7 .3zm-1.6-1.4zm.6-.8zm-1.7-.3zm-.7 1.4zm0 .4zm-2.7-1.8zm0-.4zm-1.2 7.2zm-3.6 .8zm-3.9 2.3zm-1.5-.7zm-.3-.5zm.7-1.2zm-1.9-.3zm-.3 1zm-3.4 .3zm0 .5zm-.6 .6zm-.4-.5zm-1.9 .2zm-1.4 2zm-1 .1zm-1.9 .1zm-.6-1.6zm-.9-.7zm-.4 .8zm-1 1.5zm.8 .8zm-.8 1.4zm-.9-.6zm-.6 .1zm-1.1-1.4zm-.2-.9zm-1.3-1.8zm-1.2 1.9zm-.9-3.1zm-1.4-2zm-1.3 3.8zm-.7 9.5zm1.6 .4zm-.5 1.9zm2.7 2.5zm.8 .6zm.5 2.2zm3 1.3zm.6-.4zm0-1zm-.1-.1zm-.1-.2zm.8 .2zm.9-1.1zm-.3-.9zm.6-.1zm-.4-.5zm2-5.1zm-.3-.6zm-2.3-.7zm.9-1.6zm-.2-.7zm6.3-.3zm3.6 .1zm1.1-1.2zm.7 1.1zm.7-.8zm.5 1.6zm.8 .1zm1.4-.3zm1.8 .2zm1.6-1.6zm.6 .2zm.3 1.8zm-.2 .8zm0 .5zm1.6-1zm.2-2.9zm2.4 .7zm.6 3.4zm1.3-.1zm1.9-.1zm.6 0zm-.1-.4zm-.5-1.6zm-.4 6.7zm-4.6-1.4zm-.3 1.5zm-.2 .3zm-1.6-1zm-1.4-.2zm-2-1.3zm-1.4 1.7zm-.7 .4zm-.4-.2zm-.6-.3zm-.2-.3zm.1 1zm1.1 .5zm-.9 .8zm-.6 .1zm1.4 .8zm-3.8 1zm-.7-3.3zm1.7-2.6zm1.1 .3zm.4-1.8zm.8-.7zm-2.3-1.4zm-.5 .6zm-.2 .3zm-.1 1.5zm-1.4-5.3zm2.5-.8zm2.1 .4zm1 .2zm-7.9-6.1zm-3.2 2.4zm-.4-.6zm-4-2.3zm-1 23.7zm-1.4 .5zm-.2 .2zm.4 1.8zm-.7 2.2zm-3.2-4.2zm13.4 0zm.9 2.7zm-.8 1zm-.3 .4zm.7 .9zm1.8-.2zm.2 .4zm12.9-1.2zm5.4 .1zm5.2 3.4zm.8 .9zm.6-.1zm.6-1.6zm.2 5.4zm-9.8 16.4zm-7 3zm-6.1-5zm-1-1.3zm-7.2 10.5zm2.2 14.5zm-1.3 3.4zm-1.2 1.5zm1.9 .9zm1.5 3.2zm-2.3 .4zm.1 4.5zm-1.3-.1zm1.1 1.7zm3.7-1.5zm.4-2.2zm.8-2.1zm1.2-.4zm-.4-1.5zm1.9-3.4zm2.1 .8zm1.6 2.2zm1.4-.5zm2.7-.6zm1.4-2.9zm-2.2-.3zm6.8-1.8zm1.7 2.4zm4.5-.5zm-.5-3.8zm.5-.2zm-1.3-.2zm3.6-1.9zm-.6-1zm2.1 3.5zm.3 .3zm3.6-4.4zm1.9 8.9zm1.5-.3zm-3.7 1.5zm.1 3.8zm-1.2-.1zm1.8 2.5zm-.9 1zm-3.1-1zm-1.6-.7zm-4.3 .5zm-1.5 1.4zm-1.4 2.4zm-.9-.6zm-4.1 .9zm-.6-3zm.1-1.2zm1.4 .3zm-3.5-1.3zm-.4 .1zm-1.5 .9zm.5 .8zm.8 1zm-3.1-.5zm-1.7 2.6zm-3.7-1.1zm15-5.7zm5.5-.9zm3.7 9.3zm-2.8 2.8zm-1.5-.6zm.8 3.7zm-8.5 5.9zm-2 2.5zm-1.5-.1zm-1.9-.8zm-1.9 1.2zm-2-.6zm-2.2 1.9zm-1.2 .1zm.5 2.6zm-.9 1.5zm-.6-.1zm-1-.4zm-1.8-1.4zm-.6-2.3zm-2-1.4zm-2-1.2zm-5.9-.4zm-3.4 3.8zm-.6 .3zm2.2 1.7zm.2 .4zm-.7 .5zm2.1-1.6zm5.9 4.6zm13.8-.2zm.7 2.3zm2.7-3.8zm.7-.2zm.5-1.1zm-.6-.2zm-1.2 .8zm-1.3-1.4zm-.3-1.8zm-.4-.2zm-.9 .7zm5.7 3zm.5 .2zm2.8-1.8zm1.3-.4zm0-.2zm-.1 1.4zm.4 .4zm.1 .3zm.1 .4zm.3 .1zm-.1 .2zm-.8 1.4zm-.7 .8zm-.7 0zm10.8 5.3zm-.5 2.3zm2.8-3.8zm1.9 1.4zm4.2-4.3zm1.3 1.5zm2.4 3.1zm1.7-3.1zm4.1 1.3zm1.1 .5zm-.6-3.6zm2-2.4zm1.6-2.7zm1.7-.2zm1.2-.5zm1.4 .5zm.8-1.9zm1.2 .5zm1.2 1.3zm-.6 1zm-.6 1.2zm-.2 .3zm-.9 .2zm1.8 .5zm.4 .6zm0-1.4zm.2-.1zm.7 .1zm.9-.1zm1.8 .5zm1.7 1.5zm.6-1zm.4-.6zm.7 0zm.6-.3zm.8 .8zm.2 1.3zm-.3 .1zm0 .7zm-1.7 .9zm-.2-1.3zm-1.2 .8zm-1.3 .1zm.2 1.2zm-.6 .2zm0 2.1zm1.5 .5zm.4 1.6zm-.9 .6zm-.5-.4zm-2.8 1.7zm-3.2 1zm-1 .5zm.1-3zm-2.2-.5zm5.3-2.2zm1.7-.2zm.1-3.2zm1.4-5.9zm2.4 .4zm-1.8-3.5zm-.3-3.3zm.7-2zm-.9-.5zm-.1-1zm-1.3-1.8zm-.9-2.5zm-1.8 6zm-1.3 1.4zm-.4 .3zm.5 .5zm0 .3zm.8 1zm1.9 .4zm-.1-2.5zm-4.4-1.2zm-.6 0zm0 2.3zm.2 .9zm-2.4 .7zm2.3 6.5zm13.7 6.2zm1.1 .2zm.6 .2zm-.5 1.6zm-2.9 1.3zm1.8 2.6zm-.2 .2zm1.3 1.6zm1.1 2.1zm-7.1-3zm4.4 10.3zm7.5-14.8zm1.1-4.5zm-.3-.6zm2.5-.4zm0-1zm.8-2.3zm2.5 3.8zm.3 2.3zm.7 1.3zm.6 .9zm1.5-.3zm9.4-.3zm10.2 12.9zm-39-30.6zm0-2.7zm-6.8-11.5zm-1.8-6.1zm-.6-2.6zm-3.1-.3zm1.1-2.1zm-2.9 .4zm-.8 .8zm-1.1 .8zm-.9-.6zm.6-1.1zm-1.2-.2zm-2.1 1zm.1 2.5zm-2.4 .3zm.1 1.1zm-.5 4.8zm.4 .5zm-.4 .4zm-1.1-.4zm-.5 .2zm.4 2.5zm-2-.5zm-1.6 1.6zm.4 2.2zm-.1 .8zm2 .8zm-2.6 2.8zm7.2-2.5zm1.3-7.8zm-.8-.1zm-.3-.8zm1.2-.2zm1.5-1.7zm2.3-2.1zm.4-8.1zm-1-1.4zm.2-1.6zm2.4-.1zm1.3 .4zm.7 .8zm-6.5 1.5zm-2.4-2.7zm-1.5-2zm.7-3zm2.8 1.7zm1.3-.9zm.4 0zm-8-7.8zm18.9 4.1zm1.1-.5zm-.1 11.7zm-41.8-11.7zm-31.7 27.7zm-.5 .8zm45.4 40.7zm2.5 1.5zm1.6 3.9zm0 4.1zm-.2 .4zm-1.5 0zm-.5-.8zm-2.5-2.8zm-.7 .6zm6.8 3.3zm3.9 0zm3.1 3.9zm-1.6 1.3zm4.4 2.5zm.9 .6zm62.1-72.8zm-.7-1zm3.2-.4zm6-1.4zm.9 3.7zm.8 .6zm.6-1.1zm.9 .9zm1.8 1.4zm2.5-1zm-1.7-1.6zm4.1-.5zm.9 .9zm1.1 2.2zm-.9-6.8zm-.8-.9zm-2.9-2.7zm-4.8 11.6zm.3 1.4zm28.5 12.5zm.8 .3zm0-.8zm1.5-.9zm.3 .2zm.8 .7zm.5-.4zm.4-.3zm.3 .4zm1 .7zm-118.9-89.6zm.1-1.1zm1.1-2zm1.1-.4zm-6.2-.3zm-.6 .4zm.5 .5zm-1.3 .8zm-.5 .4zm.4 1.5zm.4 .2zm-.6 .4zm0 1.1zm-2.8-8.6zm.4-1zm.2-.8zm-1.4-.3zm-.5-1.4zm1.6-1.7zm-.1-.6zm.7-.6zm.4-.1zm-.2 1.8zm.8 1.5zm-3.9 3.1zm-.3 .4zm-1.9-15.6z"/>
<path class="ps" stroke="#380a5d" stroke-width="1.0" d="M303.4 912.5zm1.3 2.4zm.9-.3zm1.2 .6zm-.9 .8zm2.2 1.7zm1.2-1.2zm.8 .9zm.5 .7zm.9 0zm-.5 .9zm-.6 .4zm2.2-1.1zm3 .3zm-.1 1.6zm3.5-.2zm3.2-.3zm.7-2zm.2-.2zm1.4 4.2zm-.5 .8zm-2.1 .2zm-.2 .5zm.2 1.8zm2.6-.4zm1.7 2.2zm0 .3zm-1.1 1.8zm5.8-.2zm2.6-2.7zm.5-.5zm2.1-2.5zm-1.2-1.3zm-1.1 .2zm-1.3 .3zm-.5-1.1zm.2-2zm1.3 .4zm2.3 1zm1.9 0zm.3-.9zm1.7-.4zm.6-1.3zm1-.2zm.4 1.9zm-.5 .7zm-.3 1.3zm2.1-.3zm.7 1.1zm-1.2 1.5zm-.1 .8zm2 1.5zm.9 1.8zm2.7 .1zm1.3 .1zm1.1-.8zm-1.7-1.5zm.1-.5zm-.8 .4zm-.8 .1zm2.9-2.6zm1.4-.3zm1.7-.4zm1.1 .2zm.9 .3zm.6-1.8zm-.2-.4zm-.9-2.6zm-2.2 1zm-1.7-2.1zm-.2-1.8zm-2 .5zm-.1 1.3zm-2.6-1.4zm.6-2.3zm-.9-1.4zm-.8 .2zm.6-1.4zm1.8 .2zm1.9 .6zm1.6-.8zm1 .5zm.7 .3zm-1.4 1.1zm3.4-1.8zm1.4 1.8zm.8 1.5zm2.1-.3zm2.4-1.2zm.3-1.1zm-.1-.2zm.4-.2zm.5 .9zm.6 .1zm.6 1.6zm1.9-1zm.9-2.6zm-2.1-2.2zm1.5-1.5zm-.2-.6zm2-.6zm1.1-1.7zm.9 0zm1.3-.3zm.4 .8zm1.1-.7zm2.7 .6zm.1 2.8zm-.2 .5zm-1 .5zm.4 1zm1.6-.5zm-.4 2zm1.2-.1zm1.1 1.4zm.8 1.5zm-.1 1.5zm1 .2zm.1-.2zm.6-1.1zm1.2 .7zm-.1 1.1zm1.8 .7zm.4-.7zm.1 1.7zm-2 .4zm-2.1 .3zm0 .4zm-.5 .2zm-.5-1.1zm.3-.8zm-1.1 2zm.8 1.7zm-.6 2.9zm.8 2.8zm-.5 .2zm-.9-.1zm-1.3 .4zm-.8 .2zm-.6 .2zm-1.1-.5zm-.8-1.7zm-1.1 .5zm1.5-1.7zm1.9 .1zm-3.5-1.7zm.4-1zm-1.1-1zm-.5 .9zm-1.2-.9zm-.2-1.7zm.1-2zm1.1-2.3zm1-.2zm1-.4zm1.2 .5zm1.9 .6zm.5-1.2zm.4-.2zm.1 .5zm-1.8 2.7zm-.5 0zm.3 .6zm-1-.7zm-1.8 2zm-3.9 2.7zm-.1 .3zm-1 1.1zm1 .6zm-1.1 1.5zm1.7 1.4zm-.6 .6zm1 .5zm1.2 3.2zm2.3 2.1zm.2 1.8zm2.1-1zm3.5 1zm0 1.9zm4.4-2.5zm-1.4-2.4zm.3-.8zm-2.3 .4zm-1.2-.5zm1.4-1.3zm1.5-1.6zm.6-.3zm2.5 1.2zm.2 .8zm1.1 .3zm1-.5zm.2-1zm1.2-.2zm.9-2.5zm-2.7-.4zm-.9-.4zm0-.3zm.6-.7zm.7-1zm-1.4-1.9zm1.8-1.4zm.6-.5zm2.3-.9zm.5-1.2zm-.3-.8zm.4-.4zm1 1.1zm0 0zm.2 0zm.6-1.9zm0-1.4zm.3-1.2zm1.4-.3zm1.3 1zm-.1 .2zm1 .3zm.6-.1zm.4-1.2zm0-.8zm.5-.7zm.3-1.4zm1.2 .1zm0 1.7zm-2.7-1.7zm.5-2.5zm.6-1.7zm1.2-3zm-.1-1.3zm-2 .8zm-2.2-.7zm-.5 .9zm-1.9-.2zm-.2 0zm-.2 .1zm-.1 0zm0 .8zm-.6-.2zm1.1 1zm-3.1-.9zm-1.3 3.2zm-2.6-2.4zm-.6 .6zm-2.3 2.6zm.5 1.1zm.4 .7zm-2.4-.5zm-.2 3zm.8 .7zm.7 1.5zm5.3 .9zm.8 1zm0-2.9zm6.3 4.6zm2.5-.6zm2.3-.1zm1.1 1.7zm2.1 1.6zm.5 .4zm-.1 1.7zm-2.1-.3zm-1.2 2.5zm-.9 1.6zm-.1 .8zm-.4 0zm.8 .4zm-1.1 2.2zm.1 .6zm.7 .3zm.4 .9zm-1.2-.1zm-.8-.2zm-.4-.4zm.5-.6zm-.5 1.5zm1.3 1.4zm2.3-.2zm0 2zm-1.8 3.2zm-1.7 0zm-4.1-3.3zm-.5-.2zm-1.2-1.7zm-.1-1.5zm-1.5 1.3zm-2.4 2.3zm-.7 2.2zm1.3 2.5zm-.1 2.4zm2-5.5zm.7-.1zm4.8-3.4zm-1.5-4zm.9-1.3zm-.1-1zm2.2-.3zm1.2-2.5zm.5-.5zm-.7-.7zm-.9 .3zm-.1-1.6zm-.6-1.3zm-3.1 1.4zm0 .7zm.8 .9zm-1.2 .5zm-6.9 4.7zm-.4 .8zm-.5-1.5zm-1.6-1.7zm.4-1.1zm-1.7-.1zm-5.7 5.2zm-7 5.3zm-2.7 .4zm-2.1 2.8zm-1.6-5.2zm.8-.5zm-.7-3.2zm-1.2-.8zm1.2-1.4zm1.1-.4zm.1-1.3zm-2.3-1.4zm-.5 .3zm-1.4-.6zm3.5-1.4zm.2-2.4zm1.2-1.1zm1.1 1.4zm.6 .2zm3.1-6.1zm2 0zm1-.7zm.4-2.7zm-2.1 .5zm-1.8-6.9zm1.3-.6zm.2-.3zm-.8-.4zm0-1.7zm.5-1.1zm-2.2 1.2zm-2.9-2.7zm1.6-2.8zm-.2-1.4zm-.3-1.5zm2.3 2.3zm1.3 1zm1.6 0zm.6 .8zm.5-.5zm2.5-1.1zm-.2-1.1zm1.4 .3zm.4-2.4zm.8-.8zm.4-2.2zm-.1-1.3zm-1.9 .6zm-.9 .1zm-1.5-1.5zm-1-1.9zm-1.7 1.5zm-1.6-1.3zm-.1-1.4zm1.1-1.2zm-1.7-4.8zm-3.6-4.4zm-4.7-.6zm-1.6 6.4zm3.2 1zm-.4 2.9zm-1.1 1.1zm1.2 1.7zm1.1 .1zm-1.4 1.6zm-1.6 .7zm-2-.5zm-.1 0zm-.3-4.4zm-2.6-4.3zm-2.7-2.5zm-3.7-3.2zm1.8-1.4zm-8.4 7.1zm-2.3 .5zm-2.7-8.4zm-3.3-2.8zm-16.3 10.9zm6.3 11.6zm.1 1.6zm-.7 4.1zm1.3 3.1zm2-.4zm1 2.4zm-.9 2.7zm-1.3 0zm-1.1 .4zm-1.2 1.3zm-.1 .3zm.2 .4zm-1-.9zm.1-1.4zm-.4-.3zm-1.8 1.4zm-.2 2zm1.4 .5zm-3.4-1.1zm.2-2.3zm-4.6-.3zm-.2 1.5zm-2.2 .6zm-1 .9zm.9 2.1zm3.3-1.5zm-7.3 2.2zm5 6.5zm.8 9zm2 .2zm14.7-5.4zm2.9-.7zm-1.3 4.1zm1.5 1.6zm6.6 1.6zm.7-1.2zm.5-2.4zm-2.6-4.6zm.3-.3zm-.1-.7zm4.3-5.6zm.3-.4zm2.5-1.5zm1.7-2.4zm-2.7-1.8zm.3-1.3zm1.5-.3zm-.5-2zm-2.5 1.5zm-.3 .2zm-.6-.1zm-2.3-1.2zm-1.9-2.4zm-2.1 1.8zm-.9-.3zm-3-.3zm.9 5zm.9 1.3zm-1.3 .8zm1.1 1.3zm2.5-1.1zm.3 .2zm2.5-1.5zm1.3 .1zm.7 .1zm-.3 .9zm2.9-8.4zm1.2-2.3zm.8 .1zm-1.3-1.8zm1.8-.8zm3.5-3.1zm-.8-1.2zm.5-2.4zm2.9-.1zm.6-2.1zm-.1 4.9zm-1.4 2.1zm-6.1-2.7zm-5 3zm-1-1.6zm.1-2zm.6 5.9zm1.3 .5zm-5.7 .6zm-6.5 10.5zm17.1 11.9zm3.4 2.2zm.4 1zm3.7 2.9zm1.5 1.4zm1.3-.8zm.4-.2zm1.2 1.2zm.7-.2zm-1.4 1.9zm-.4 .8zm1 .2zm1.4 1.6zm.4 .5zm1.4-.9zm0-1.2zm.3 3.1zm-.3 .1zm-5.2 2.4zm-2.4-2.1zm-.3-.5zm-.3-.2zm-1.1-1zm-3.6 3.3zm4.5 3.3zm-1.9 9.4zm4.9 .5zm-15-6.2zm-.5-4.5zm-5.1-2.9zm5.1-5.4zm1.2 .6zm2.7-1.5zm10.9-11zm3.2-7.1zm-1.9-1.2zm-.3 .2zm-2.8-.5zm-1-1.6zm-.8-.9zm.7-1zm-.8-1.3zm-.9-.1zm.2-1.3zm1.4-.1zm-.2-1.1zm3.6 1.7zm1.4-.3zm.5 .8zm.3 1zm-.3 .7zm.5 .2zm.5-.1zm1.5 .8zm-.1 .5zm1.1 .4zm-1.5 .7zm2.2-2.2zm-1.7-1.2zm-1-3.4zm-.7-.2zm1.4-1.5zm1.3-3.4zm-.9-1.6zm4-2.1zm0 8.8zm.4 1.8zm.7 1.6zm-2.7 7zm-6.3-6.6zm-5.2 4.7zm15.6 19.5zm3.9 10.9zm-3 22.5zm5.5 2.6zm.1 .2zm1.1 .2zm-1.3 1.1zm22.2-24.5zm9.7-10.3zm.9-2.1zm-1.6-.5zm-.7 .1zm-.3-.1zm.8-1.6zm-.1-1zm.1-2.2zm1.6-1zm1.6-1.6zm.7 1.6zm1.3 1.5zm1.1-.7zm.4 1.5zm-.2 .5zm1.7 .9zm.4-1.3zm2.1-1.4zm.2 3.1zm-1 2.7zm-1.2 1.3zm-.7-1.6zm-.5 3.1zm-3.7 1.8zm1.5 3.6zm3.2 .6zm3.3-6.4zm.1-.6zm4.2-1.1zm.4 1.3zm.2 .5zm.2-3.1zm2.2-1.1zm.5-1.3zm-.1-1zm-.6-1.6zm-1.9 1zm-.3-.1zm-2.9-.8zm-1.3-3.5zm-.5 .2zm.3-1zm-.3-1.1zm-1.1-.8zm.7-1.1zm-.7-.8zm.5-1.4zm1.6-2zm-2.2-.6zm.1-.8zm-.9-.6zm.9-.7zm-1.2-.4zm-1 2.3zm-.2 1.7zm-2.2-.1zm-.4-.8zm.6-1.8zm.7-2.1zm-2.6-.4zm-2.4 2.6zm-.9 2.1zm.5 .6zm1.4-.5zm0-.1zm.1 1.3zm.1 .9zm2.5 .3zm1.8 1.8zm-.2 .6zm.3 .9zm-1.2-.4zm-.5 3.6zm-3.8-4.5zm-2.8-4.1zm1.4-4.6zm-1.9-2.1zm-.1 0zm-1.3 .3zm1.9-2zm.5 .2zm.2-.9zm.6 .1zm-.4-1.6zm-1.5 1zm3.5-.7zm.7-2zm.5 .1zm0 .1zm1 .2zm.4 1.4zm-.3 .3zm1.7-1.9zm.8 .1zm0-1.4zm-1.4 .2zm-1.3-1.1zm-2.5-1.3zm-1.4-2.6zm-1.2 .9zm-.6-2.4zm.4-2.8zm-3.1 3.9zm-.3 1.6zm-1.1-.4zm-1.3-.4zm-1.3 1.9zm4.3 .2zm.1 0zm.5-.3zm7.1-1.7zm2-1.4zm1.2-.3zm.8 1.3zm.7 .3zm-.2 1.9zm3.2 3.8zm-2 1.3zm0 2.1zm-.5 .4zm3.2 3.2zm1.1-.8zm0 2.3zm2.1-.1zm2.4 1.9zm-1 1.5zm.5 1zm1.3-.4zm1.1-1.1zm1.3-.4zm.7-.3zm.3 .3zm.3-1.2zm.7 .2zm.1 .2zm.5-1.8zm1.7-.8zm.7 .2zm-.3-1.3zm-.9-1zm-.8 1zm-2-1.3zm-.8-.2zm-.8-.2zm-.8 .1zm-.3-.1zm-.4-1.1zm.8-.2zm.7-.2zm1.3 1zm.3-.2zm2.2-.4zm.7-1.2zm2.6-.1zm1.2-.9zm.2-.9zm.9 0zm-1-1.8zm-1.2-.4zm0-1zm-.9-1.3zm-1.6-.7zm-1.2-.1zm-.6 .7zm.1 2.6zm-.6 .5zm-3.1-3.3zm-2.6 .9zm-.5 2.3zm.6 .8zm.3 3.4zm-.6 1zm4.9 3.4zm-.3 5.4zm.4 .1zm.2 .5zm-1.5 3.8zm-.6 .1zm-.1 .2zm-.1 .7zm.2 .5zm.4 .1zm-.4 1.3zm0 .8zm1.1 .6zm.6-1.7zm.3-.3zm.9 0zm1.6 1.8zm.8-1.1zm.4 2.3zm-1.6 1.8zm-.7 1.2zm.1 1.1zm-.9 .2zm-.5-.4zm-.5-.9zm-.6-.6zm-.4 .5zm4.4 .4zm1.7-1zm.3 .9zm.9 2.4zm-2.9 .3zm3.4-5.3zm.2-.6zm1 1.2zm1.2-1.2zm.4 .1zm-.1 .2zm-.4-.9zm-.2-1.5zm1.8-.5zm.1-.8zm1.6-.8zm.9 .7zm1.2 .5zm1.2 .7zm.5-1.8zm-1.8-1.1zm-3.7-.1zm.1-1.9zm-.8-1.4zm2.4-1.1zm-1.9-2.7zm.3-.6zm.7 .1zm1.1-2zm-1-.7zm-.4 .2zm0 .2zm-2.1 .8zm-.4 .6zm-.8 .4zm.2 .5zm0 .5zm-.2 .5zm-.2 .2zm-.7 1zm-.5-2.7zm-.9 .2zm.9-1.2zm1.4 .2zm-.7-2.2zm1.3-.2zm2.1-2zm-.6-1.7zm.1-.9zm1 .4zm1.7-.1zm1.2-2.9zm-1.3-.4zm-.3-.9zm-.7-1.4zm-.9 .8zm-.6 1.4zm.5 .9zm5-3.5zm.5 .7zm.9 2.8zm2.8-2.2zm1 2.1zm-.8 2.2zm.1 3.5zm-3.7 .1zm0-.5zm-1.2 3.8zm.6 1.7zm-8.4 5zm.5 2zm-.2 .4zm-.7 1.1zm-2.1-.2zm0-4.2zm-7.4 3.2zm-1.4-1.1zm-2.2 2.2zm-.8-1.1zm2.5 3.2zm-2.2-8.9zm.2-17.5zm1.6-.3zm-.2-3.6zm-3.7 .2zm.1 1.6zm-1.3 .5zm-5.9-2.4zm-.3 0zm-2.2-13.3zm-3.6-4.3zm-2-2.8zm-.6-2.2zm-.8-.5zm-.6-1.1zm.4-.9zm1.6 .6zm1.1 1.1zm1.6 1.5zm.9-1.7zm1.3 .7zm.3-.2zm-.5-2.3zm-1.8 0zm-.8-2.3zm1.9-.1zm.9-1.9zm2.9-1.2zm1 2.9zm1.5-.3zm.8-.8zm.3 0zm0 .4zm.5 2.6zm.6 1zm-.5 1.8zm.5 1.9zm2.2-2.2zm.4-3.5zm-.7-1.2zm-.1-.7zm3.6 2.1zm3.6-2.3zm1 0zm.7-2.7zm0-.7zm-1 .2zm-.9-.1zm-.8-.3zm-.6 .3zm-2.7 .3zm.3-2.1zm-.4-2.3zm.1-4.6zm-.9-.8zm-3.6-1.9zm-4.2 .9zm-.8 3.6zm-1.6 1.4zm-1.4-2.6zm-.7-1.2zm4.1 6.5zm2.6 1zm.3-.6zm.8 1.7zm1.5-.4zm10.2-.5zm3.6-.8zm.2 .5zm.6 0zm-.5-1.3zm1.1-.9zm.5-1.7zm-2.3-1.1zm-1.1 .9zm.4-3.1zm5.5-2.3zm2.1 1zm1.5-1.2zm.2 2.3zm-.2 .5zm.7 .8zm2.3 .1zm-.1-1.7zm2.2-.1zm.1 1.5zm-2.7-4.5zm-1.7-1.7zm-2.6 1.1zm4.1-3.7zm-.1-1.3zm1.3-.2zm.2 1.9zm3.4-3.2zm-.2-.2zm0-.9zm-1.6-.4zm2.3-2.4zm3.1-1.4zm1.4 1.6zm0 .3zm-1.6 3.1zm-.3 .7zm.2 .7zm-1.7 .7zm-11.4 15.4zm-1.2 4.6zm1.5 .9zm.3-.3zm1.5 0zm.9-.2zm-2.3 1.7zm2.1 1.7zm-1.4 1.5zm1.3 .8zm-.7 1zm0 .1zm-3.8-3.3zm-1.5-2.7zm-1.8-.4zm.4-1.1zm1-.5zm-2.4 .5zm-.1 .2zm-1.7 12.1zm-6.5-2.9zm-8.1-2.2zm-12.7 .1zm-2.2 2.8zm-2 1.5zm-.9 4.2zm.5 .8zm1.5-.5zm1.3-.8zm1.4 2.8zm-3 0zm0 1.4zm-2.2-1zm-.7-1zm-2.1-.6zm-2.4 6.1zm3.3 .4zm.2 .3zm-2.9 4.3zm-1.8-.4zm-.2 1.1zm-1.5 .6zm.3-2.1zm.7-.5zm2.1 3.2zm2.1-.1zm.1 .9zm1 0zm.2-.8zm-1.4 2.6zm1.7 1.2zm-1.8 2.1zm-.2 .2zm-5.2-2.4zm-1.9-2zm-.1 .1zm-1 .1zm-.2-2.7zm-6.2 1.3zm1.3 8.3zm5.1 4zm15.2 8.6zm-13.3-28.6zm-6.1-6.6zm-1.5-.7zm-11 5.3zm-11.1-25.1zm.9-1.4zm-.5-6.1zm-1.2-2.7zm-6.7 .3zm-4.3 1zm-1.5-6.6zm-3.7 .8zm3.9-5.3zm.1-.5zm-1.4-.3zm-6-3.4zm-1.9-1.4zm-4.2 2.9zm-3.1-.5zm-1.1 3.7zm-.5 .1zm-2.7-.1zm-4.3 1.5zm-2.7 2.5zm7.3 1zm5.7 .4zm.6-2.6zm-4.3-11.1zm-.3-1.5zm-2.6-3.6zm-1.5-1.1zm2.7-.4zm.7-.3zm1.4 1zm-.1-3.2zm-5.4-.9zm-1.5 11.7zm-6.5-1.7zm19.9-4.6zm.7 .6zm.6 .8zm.5 .3zm.4-.3zm.2-4.7zm2.2-1.1zm-2-1.5zm7.1 .6zm1.7 5.3zm-1.8 2.6zm-.8 .1zm9.7-3zm2.6-1.8zm-1-4.4zm-4.7-4.3zm-2.1-.7zm1.1-1.5zm-5.7-.4zm-1.4-3.6zm3.9-1.6zm-9.5-.2zm-.9 2.6zm23.6 2.7zm1.7-1zm-1.2-3.4zm1.2-3.4zm-.5-1.2zm8.2 5.1zm5.2-2.6zm-.2-1.9zm10.7 5.8zm3-1.7zm-.4-.9zm2.5 8.6zm6.7-3.9zm.4 13.2zm-2.4 4.8zm-8.2-5.5zm-4.8 .8zm-5 3.4zm-.4-.4zm-1 3.2zm-1.1 2.9zm-3.7-2.4zm1-1.2zm1.1-1.3zm-1.5-1.7zm-3.4-1.2zm-4.5-1.8zm1.5 5.8zm1.5 2.8zm-5.5 3.7zm-1 .8zm.5 1zm-1.4 .3zm-.7 .9zm.1 .9zm1-.2zm.6 .3zm.8 .4zm7.3-1.5zm2.3 .5zm-1.5 2.2zm4.3-2.5zm12.4-.2zm.4 5.2zm3 3.1zm-7.3-29.2zm-11.9-1.3zm-1.5 .8zm-1.1-.9zm-2.2-1.3zm-1.8-.2zm0 0zm0 .9zm-3.3 14zm-.6-.1zm-.2 1.9zm-5.5 1.4zm65.8 6.5zm5.2 6.2zm.4-.3zm26.6 29.8zm1.2 .5zm-6.1 4zm-2.5 1.8zm4.1 4.5zm1.2 1.8zm.9 1.8zm2.5 2.1zm-.1 1.2zm-1 .9zm-.1 0zm.2 .4zm0 1.6zm2.3 .9zm.8-2.7zm3.3 1.5zm-1.6 2.8zm0 1.8zm3.7-1.9zm1 .2zm0 1.8zm-.8 2zm-.4-12.6zm-1.7-1.5zm-11.1 6.4zm.4 1zm-4.5 28.4zm2.1 1.8zm1.2-1.2zm-3.8 2.2zm-.3 2zm-14.9 8.2zm57.5-26.1zm1.4 .3z"/>
<path class="ps" stroke="#5a126c" stroke-width="1.0" d="M305.1 914.6zm0 .6zm.5-1.7zm2.6 1.6zm.8-.5zm-.2-.9zm3.4-1.3zm1 1.6zm.6-.6zm.5 1.5zm-1.3 1.3zm-1.1 1.1zm-1.7 .2zm.1 1.2zm.8 .4zm5.4 .6zm3.4-2.3zm1.3 .2zm.1-.4zm.9-.2zm1.3 .4zm2.2 .5zm.1-.9zm2.2 .8zm.7 1.2zm-.8 .4zm-.2 0zm1.1 3.1zm3.1-1.4zm0-.4zm-.5-1.7zm.7-.4zm-1.4-.9zm-.7-1.1zm-.1-.7zm1.3-.1zm.6-1.6zm2.3 1.9zm1 1zm1.8-.1zm1.6 1.6zm-1.1 1.6zm.3 .4zm-1.2 .8zm.3 1.2zm.9 1.5zm-.1 1.7zm2.6-2.8zm.9 0zm1.2 2.2zm-.6 .5zm.1 .9zm-.5 1.9zm2.7-1.3zm.1-1.2zm2.8-1.7zm-.3-.9zm1.8-.7zm1.9-3zm-.2-.4zm1.7 1zm1.3 1zm.2 2.5zm3-1.7zm1.3-1zm4.1 1.3zm1.1 1.3zm-1.2 1.4zm-.3 1.2zm.3 .9zm-1.6 .8zm-.8-1.2zm-2.7 0zm.2 2.8zm-1.3 .1zm-2.6 2.1zm-.5 .1zm-.2-1.6zm1.5 3.3zm1.3 .1zm.5 .6zm-.5 .9zm-2.4-.7zm-5.1-2.1zm.3-1.3zm.7-1.4zm0-2.1zm-2.8 1.5zm-1.2 3.8zm2.6 2.4zm-7.3 2.9zm-9-10.4zm2-1.8zm.4-1zm.9-2zm-.7-.4zm.3-2.9zm4.6-5.9zm3-.3zm0 1.8zm-.6 1.2zm1.6-.2zm1.9-1.1zm1 1.3zm.5 1zm-1.2 1.8zm-1-.2zm-.3 1.4zm3.9-6.2zm1.4-.8zm1.2-.6zm-.9-1.8zm-.9-.6zm.4-.7zm.4-.6zm.7 .3zm.6-.6zm-.9-2.5zm1.2-.3zm.1-.1zm.2-1.6zm1.6 1.4zm1.2 .8zm1.4 2.2zm0 .2zm2.4 2.3zm-1 2.1zm.1 1.4zm-.6 .9zm1.1 .4zm.6-.5zm.4-1.2zm1.6-.5zm.3-1zm.7-1.2zm.8-1.4zm1-1zm1.8 1.5zm1.8-1.7zm.9-.2zm0 .5zm1.6 .2zm2.4 .3zm1-1.3zm.9 1.2zm1 1.4zm1-1.2zm1 .2zm.9 .9zm.7 .5zm1.3 .1zm-2.2 1.1zm-.9-1.1zm-.4 .2zm-1.1 .9zm-1.5 0zm-.1 2.1zm.7 .6zm2.9 .6zm1.2-1.4zm1.2 .7zm-.6 2.2zm-.5 .7zm.5 1.1zm1.2-1.6zm2.2-1.9zm.4-.6zm.5 1.2zm.1 2.8zm1.1 2.7zm.8 2.4zm-.5 .5zm1.4-.7zm1.5-1.8zm.4 .2zm2.7-.9zm1.4 2zm1.1-2.9zm-1.2-1.8zm-3.7 .1zm-2-.1zm1.6-1.9zm-.6-3.5zm-1.3-1.1zm-1.1-.6zm-.8 1.4zm-.1-4.7zm.3-.4zm1.7-1.8zm.8-1zm.8 .3zm-1.4-1zm.1-.6zm-1.4-2.7zm-3.4-.1zm-5.1-2.5zm-.7-3.8zm1.1-1.2zm-1.4-1.2zm2.2-1.4zm1.1-.7zm.8 .4zm-.1 1zm1.3-.5zm-.9-2.2zm-1.1-.2zm2.3-1.5zm1.1 0zm0-1.2zm1.2 .3zm-2.1-1.4zm-.9-2.6zm.5-4.1zm3.3 1.1zm1-.3zm1.1 .7zm0 .1zm-1.6 2.1zm4 2.5zm2.1-.8zm1.3 .7zm-2.1 4.3zm.4 .3zm.1 .3zm1.3-.1zm-2.8-.5zm-1.5-.9zm-1.2 .5zm-3.9 .6zm-5.8-2zm-.9 .5zm-.1-.8zm-3 .5zm-.8 2.8zm1.4 3.8zm-2.8 4.4zm-3 1.5zm-.4 1zm2 3.6zm2.4-.2zm2.7 .5zm.6-1.2zm.9 1.4zm.6 1.7zm.5 .6zm0 .4zm-.3 .9zm.2 .3zm1.6-.6zm3.3 0zm6.2 1.7zm.3-.9zm.1-.8zm1 2.8zm1.5-.9zm1 1.9zm.4 1.2zm-1 .5zm1.5 1.2zm-.3 .4zm1.2-.4zm1-.6zm.8 .6zm.2 1.1zm.5 .2zm1.3 .4zm0 .6zm0 1.8zm-1.2 2.8zm.5 2.1zm.2 .8zm1.3-.6zm1.6-1.6zm-1.1-.7zm1.9-1.6zm.8-1.2zm2.1 .1zm.1-.9zm-.1 2.6zm2.6 .5zm.3 .7zm.6-1.5zm1.4 1.1zm1.4-.8zm1.2 .3zm-.6 1.8zm.7 2.3zm.9 2.4zm1.6-1zm3-2.2zm-.2-.5zm-.6-1.9zm1.6-.5zm-.8-1zm-1-.9zm-1-1.2zm-.7 .7zm-1.1 .8zm.3 1.7zm1 .6zm3.6-2.5zm1.8-3zm1.7 1zm.8 .9zm1.6 0zm0 1.1zm.3 .4zm.1 .9zm.2 1zm.3 .7zm-.9 .4zm-.1-.2zm-1.2 .2zm-.3-1.2zm.3-.5zm-1.1 2.5zm-.3 .4zm-.8 .2zm-1.3-.1zm-.6 2.2zm-.9 1.3zm1.7 .8zm.9 .3zm0 .2zm-1.1 1.8zm1.5-4.5zm1.5-1.6zm2.8 4.3zm.7 0zm1.9-1.1zm2.3 1.8zm1.5-2zm.6-.2zm0-1.4zm1.7-.6zm.3-.8zm.7-.3zm-.6-1.5zm-1.5 .1zm0-1.9zm1.8-.9zm.4 .8zm.9 .3zm.3 .4zm.2 1.1zm.2 .8zm.9 .6zm.7-2.3zm2.2-1.7zm.3 .1zm.2-1.9zm.7-.8zm-1.2-.7zm-1.2-1zm-.7-1.3zm-.8-1zm-1-3.3zm.9-.5zm-1.5-.5zm-1 .8zm-1.9 .3zm-1.4 3.9zm-.4 .1zm-2.6 1.5zm0 3.2zm-.6 1zm-.2 .5zm-.2 .6zm-1.1-.2zm.2-.5zm-.3-.5zm2.8 .6zm.4 .9zm.2-1.9zm.6 0zm1.5-.6zm1.1-1.1zm0-.3zm-3 5.9zm-2.5 1zm-4.3-8.1zm-1.5-3.4zm-.2-.3zm-.7 .2zm.9-1.2zm-1.4-1.9zm2-1.9zm-1.8-1.3zm-1.3-1.4zm2.1-1.1zm.3-1.4zm.5-.8zm-1.2-2.3zm-1-2.2zm.9-1.2zm.4-4.5zm-5.9 2.6zm-.6 .9zm1.4 2.9zm0 4.6zm-2.9 1zm-.5 .8zm-.5 .3zm-.2 .9zm-.5 .5zm-.2 .7zm0 .7zm-1.9-.5zm1.4-1.7zm2 .1zm-.9-2.2zm-4-1.2zm-.5-1.8zm-2.1 3.1zm-1.2 .8zm-.6 1zm-2.6-1.3zm-.6 1.2zm-.6-.3zm-1.1 2zm.6 .7zm.3 .4zm-.1 1zm-.6 .1zm-.8-.1zm2.2-.1zm.7-1.5zm-3.5-.9zm-3.1-2.7zm-1.1 1.2zm-1.7-2.7zm-.3-3.8zm.2-3.2zm-.8-1.2zm.9-.5zm.2-.1zm2.6 .1zm1.7-.7zm.1 1.9zm1.6 1.3zm-.2 1.1zm0 .2zm1.1-.4zm-.1-1.9zm.9 .1zm.5-.5zm0-.9zm2.8-.5zm.1 1.3zm1.6 .9zm-2.7 2.3zm1.8 2.8zm-6.2-1.6zm-.3 3zm-1.4 .7zm-.2-.6zm-1.4 7.5zm0 3.2zm3.4-1.4zm.9 0zm-.2 1.6zm.4 1.3zm4.2-2.9zm2.3-2.7zm3.8 .7zm2.4 1.4zm-1 2.1zm-.2 1.7zm-.3 .5zm1.3 0zm-2 1.9zm.9 1zm-.5 .6zm1.8-.2zm-3.3 8zm-2.7-.5zm-.5 1zm-1.5 1.8zm-1.2-.7zm0 1.5zm-1.6 .4zm1 1.2zm3.1-.9zm2.4-1zm-.1 4.4zm.8 .2zm.3-.3zm0 .7zm3.3 1.4zm-.5 1.7zm1.1 .4zm-4 .5zm-.7 1.6zm.8 .3zm-5.1 .2zm-3-2.9zm-4.1 1.9zm-2.3 3zm-1.9-.7zm-3.1-5zm-1.1-1.6zm-.9-2.1zm-1.2 .2zm.2-1zm.1-1.4zm.3-.5zm.1-.1zm-1.3-2zm-1.7-1.1zm-.1-1.5zm-1.1-2.6zm-.7-.1zm-1.1-1.2zm-3-.1zm-1.3 .4zm-1.8-.4zm.1 2.2zm1 0zm-3.3 .2zm-.7-2.4zm.2-1.3zm-.5-2.3zm-1.3-1.5zm.7-.7zm1-1zm.6-.6zm.6-2.4zm-3.8 1zm-.8 .2zm1.1 .8zm-.1 .8zm-1.7 1.1zm-.5 .4zm.2 1.4zm.4 .4zm-2.2 1.2zm-1.6-.9zm3.6 3.1zm.2 1.6zm.9 5.6zm1.7 2.1zm-2.5 3.1zm-1.7-3.3zm-2.7 1.2zm-.9-.8zm-.6 1.7zm11.2 1.4zm1.5 1zm1.8-2.7zm3.4 1.9zm1.4-.7zm2.7 2.6zm.9-.2zm.7-.2zm-3.9 2.6zm-1.4-8.9zm.1-.1zm.2-1.4zm0-.7zm-1.5 .1zm-.2-.8zm-1 1.7zm.6 .6zm-2-9.4zm-.9-12zm-3.9-.3zm-2.9 .7zm-1.2-.9zm-4.7-.3zm-1.9 .5zm-.2-1.6zm.8-1.2zm-4.3 0zm-.1-3.4zm1.9-1.6zm-.6-1.4zm1.5-1.5zm1-2zm.5-1.2zm1.4 3.4zm.2 1.9zm4.6-2.1zm0-1.1zm-.9-2.9zm-3.1-4zm-.4-.7zm1.4-.7zm1-3zm-4.6-.2zm.2 2.6zm-3 2.9zm-3.5-1.2zm.4-1.8zm-.4-.2zm-.6-2.1zm-1.7 2zm-.4-.2zm-1.4 1.9zm.4 .9zm.6 .2zm.5 2zm-.1 .1zm-3.5 .3zm0 .8zm-1.3 1.1zm-3.8-.8zm-2.3 2.1zm-2.1 1.1zm-2.7-1zm-5.5-1.8zm-4.7 2zm-.2 3.3zm.2 .6zm.5-.3zm2.4 1.5zm3.1 .7zm.2 4.3zm1.5 1.9zm1.1-.4zm.9 0zm.7 2.2zm.5 .1zm-.3 .4zm-1.7 .4zm-.5-.4zm-.5 .5zm-1.1-.6zm-.2-.5zm-.8-.8zm-.7 .4zm-.4 2.5zm.2 .7zm-1.1-.9zm1.6 3.7zm5.7-2.1zm.3 .3zm.9-1.7zm2.2-2.1zm.2-2.1zm2 .6zm.6 .9zm.1 1.1zm-1.5-4.4zm2.2-.8zm-.9-2.2zm-.2-2.2zm1.3-.7zm-1.9-1.8zm-4 4.6zm-1.8 2.3zm2.6 .6zm-.6 1.8zm-9.2-1.5zm-4.2-1.5zm-1.7 .9zm-.4-1zm-1.2-.2zm.3-.7zm-4.4-2.3zm-2.3 2.7zm-1.2 1.6zm-.3 1.7zm.3 .7zm3-1zm1.3 1.7zm-.9 1.3zm-.3 1.5zm-.4 .8zm1.2 .2zm2.9 2.5zm-.8 2.1zm5.2 5.2zm1.3 6.4zm-2.1-18.2zm1.1-.4zm-2-11.3zm-.7-6.6zm-.9-3.3zm-11.7 20.2zm.4 .7zm-3.1 9.4zm39.8-5.2zm1.3 0zm.6-3.8zm-.9-1.5zm.7-2.3zm-.2-1.7zm2-2.3zm1.3-1.2zm.1-.1zm2.1 .3zm1.3 14.4zm.8 3.6zm-4.8-2.9zm.6 33.8zm3.7 1.4zm2.1 2.7zm.9-.9zm-3 2.3zm2.6 1.8zm1.4 0zm2.7 2zm11.8 6.6zm12.9-15.8zm4.9 3zm2.1-4.7zm3.1-14.3zm.9-4zm-.9-.4zm-1.5-.8zm-4.7 1.8zm-1.8-.2zm1.4-1.6zm-1.6-.6zm-.8-.5zm2.5 5.1zm.8 .6zm9.1-5.8zm1.5-.7zm-.3-2.2zm9.4 8zm3.8 1.7zm6.4 3zm9.1 7.7zm-2.9 4.4zm-8.2-33.8zm4.9-1.5zm.5-1.8zm-.4-.6zm1.8 1.1zm.8 .9zm3-4.8zm-.8-3.2zm-1.1-.8zm.7-2.3zm1.1 .3zm.6-1.1zm1.1 .7zm1.5-2.6zm2 1zm1.1 .5zm1.4 2.5zm-.1 1.2zm-2-.6zm-2.1 1.1zm.7 .9zm-.3 .2zm1.4 1zm3.6-.8zm1.6-1.3zm1.4 .8zm.7-1.8zm1.5-1.9zm.3-1.9zm-.1-.1zm-.8-3.9zm-2.6-.8zm-4.7 1.2zm-.5 .9zm-1.4-2.6zm-2 .1zm-1.6 .3zm.1 .9zm-1.1-.3zm-1.5 1.6zm.1 1.3zm.5 1.3zm-2-.9zm0-.1zm-1.2 2.2zm.1 .3zm-.2 3.1zm4-12.1zm14.2-4.8zm2 3.9zm.2 0zm5.3-.1zm.8-1.2zm1 1.4zm1.8-6.8zm-14.5-8.7zm-2.1 1.5zm-5.9-2.4zm.9-6.6zm1.7-.2zm1.1-1.8zm.3 .1zm3.6 2.6zm-.3 1.2zm-7.8-6zm-1.7-2.2zm1.2-.6zm-3-1zm.1-1zm.3-1.1zm-.5-1zm1.8 .4zm-.1 .5zm.2-3zm1.3 0zm.7-.4zm.1-.1zm.7 .3zm1.2 1.3zm-.7 1.1zm.7 2zm.5 1.4zm1.1-.9zm.3 .2zm.9-7.3zm.5-.6zm-.9-1.3zm.4-1.7zm.4-1zm.2-.2zm-1-.5zm.5-.8zm.7-.9zm1.3-.6zm.6 .9zm1.6-.5zm1.2-2.8zm-1.9-1zm-.7-.3zm.4 1.1zm.8-3.2zm2.6 .7zm.2-.1zm.7-1.3zm-.6-.3zm1.6 .2zm-.4-2.1zm-1.2-1zm2.8 .5zm1.4 0zm-.7 1.5zm-7.5-2zm-1.2 1.4zm-.1 .7zm-1.2 1.2zm-6.7 1.9zm-.9-2.3zm-9.4 3.2zm-.3 2.9zm.1 1.2zm2 1.5zm3.1 2.1zm3.3 .7zm1.7 .3zm.2 1.3zm1.2 0zm.7-.5zm-.5 1.9zm1 .2zm-3.5-.6zm-6.9 2.5zm-1.5 .5zm-2.6 2.9zm1.5 1.7zm3.1 .5zm1.8-1.2zm-.6-1zm-.2-.2zm.3 4.6zm-4.1 4.1zm1 1.1zm1 .5zm.4 .4zm-.4 .3zm0 .8zm-2.3-1.1zm-.8 .9zm-3.4-2zm-1.1 .7zm-.2-2.5zm1.3-2.6zm-.7-1.3zm-1.2 .4zm-.2-.9zm-1.4 1.9zm-4.2 2.6zm.4 .8zm.2 1.2zm-1.3-.4zm-.8 3.6zm-.7 .3zm-1.2 .3zm-.2-.2zm.5 2zm1.3 2.9zm2.6 2zm-9.8-1.2zm-.4 1.3zm-1.4 1.4zm1.8 2.3zm-2.3-5.6zm-1.1-.7zm-.7 .8zm-.5 0zm-2.6-.7zm-.1 .9zm-.5-2.8zm1-3zm-2.7-.4zm0-.6zm-.9 1zm-1.8-8.5zm-6.3-.4zm-1-1.1zm-1.3 14.6zm-3.2-.1zm-8.2-.8zm-6 2.4zm-2.1-.1zm-.4-1.6zm.3-.6zm-5-3.5zm18.7 12.7zm14.4 11.4zm.5 1zm20.6-3.5zm1.7 1.2zm-.6 1.3zm2.3-1.7zm-.8-1.8zm.9-2.7zm-.3 8.2zm3.1 12.2zm30.6-4.5zm32.7 4.7zm.4 .3zm-35.9-60.2zm-1.4 .8zm-1.6-.4zm1.4-1.3zm-.8-1.1zm-22.2 .6zm-.9 .4zm.2 .5zm-.5-2zm-3.2 2.4zm-2.3 .2zm-.9-1.4zm.9-.9zm-2.3 4.7zm1.5 2.8zm1.3 1.5zm1.6 1.4zm2.6-.9zm-.7-2.3zm1.2-.8zm1.7-1.2zm-.6 8.3zm.4 1.6zm-11.5-.6zm-.1 1.5zm-.5-.1zm-2.4-1.6zm-.6-.1zm.2 1zm-1.5 3.9zm-.8 1.4zm-1.9 .5zm.4-3.4zm2-9.9zm11.2-14.4zm-1-1.8zm6.5 4.1zm-32.9 1.3zm-12-22.1zm-45.9 32.4z"/>
<path class="ps" stroke="#7c1d6b" stroke-width="1.0" d="M303.1 913.5zm3.5 .9zm1.1-.5zm1.7 1.6zm.4 .3zm.5 .2zm1.2 .4zm-.9 .9zm0 .2zm.4 .2zm.8 1.7zm-3.6-2.7zm-2-.5zm4.5-1.5zm-.6-1.5zm.2-.7zm1.3 .1zm.4-1.1zm1.2-.1zm.3 .9zm1.7 .5zm-.9-2.5zm-2.2-.7zm-1.9-3.2zm.6-1.2zm3.1-.9zm.9-.9zm.6-1.3zm-5.7-2.7zm-4.4 4.5zm3 4.5zm9.1 2zm1.6 3.8zm1.3 2.3zm1.9 .2zm1.2 .9zm.3-.3zm2.1-.8zm2.3-.4zm1.4-.9zm.2 .4zm.4 1zm.1 .8zm1.1-1.5zm1-.3zm1.3-1.1zm-.1-1zm-1.6-.4zm-.5-.5zm.9-.7zm-.7-.7zm.3-1.5zm.6-.2zm1.6 1.5zm.6 .4zm1.5-.8zm1.7-3.9zm1.1 .1zm-.7-1.6zm2-1.9zm2.2 .3zm2.7-1.6zm.8 1.7zm3.1-.7zm1.4 .2zm2.5 .2zm1.8 2.5zm1.9-.6zm2.5 .2zm.5-1.5zm1.2-.5zm2.1-1.2zm1.5 .1zm1.3-.3zm2.1-1.7zm-.3-2.5zm.9-2.8zm.3-1zm-1-.8zm-1 .4zm-.1-.5zm.9-3.3zm-5.1 1.2zm-1.3-1.4zm-2.4 3.2zm.3 1.7zm-.4 .8zm-1.3 1.8zm-3.2 2.6zm-.3 .6zm5.3 .7zm.9 8.6zm-.2 .2zm-.6 1.2zm.5 .2zm.4 .1zm.2 .7zm-.7-.1zm-2.1 .5zm.5 1.2zm0 1.3zm-1-.4zm-1.8-2.9zm-2.5 .6zm-.3-2.1zm-1.9-.6zm-.4 .9zm-.1-3.1zm-5.1 2.9zm0 1.2zm-.4 .5zm1 0zm-1.9 1zm.4 2.8zm3.4 .7zm.7-1zm-.5-.5zm0-.6zm2.8 3.5zm4.3 .2zm5.5-.8zm3.5 .9zm.4-2.9zm-1.2-2.1zm1-.9zm3 0zm1.1 2.2zm-.3 .2zm.3 1.7zm.7 2.4zm1.5 1.1zm-.6 1zm3.3-2.6zm1.1-1.2zm.5-.5zm.4-.6zm1.1-1.5zm.6-1.5zm-.8-.5zm-1.7-.8zm3.6-1.9zm1.3 1zm.7 .3zm.6 .5zm-.1 2.3zm.9 .8zm1.2-.4zm-.7 1.6zm-1.5-.4zm-1.2 .8zm-1.6 .8zm.5 1.1zm.6 .1zm-1 1zm-1.3-.8zm-.5 3zm-1.8 1.4zm2.7 2.7zm1 .1zm-.2 1.3zm1.6-.8zm.7 1.1zm-1.7 2.5zm-.4 .2zm-2.2-1.7zm.4 4.1zm1 2.3zm-.3 1.5zm-1.8-.9zm3.7-.6zm2.8-.1zm.7 1.5zm2.4-2.5zm.5-.2zm.3 .9zm.2-2.7zm-1.1-.4zm-.7-.6zm.2-.5zm.2-.4zm-.3-2zm-.1-.2zm1.5-3.4zm.2-.6zm1.3 1.4zm1.5-.2zm4.4 .1zm.4 .8zm2.4 .1zm-.8 1.8zm3.1-1.6zm.8-.6zm.5-.9zm-2-1.4zm.6-2.1zm2.3-1.5zm.9 1.6zm.2 .2zm1.7-.9zm2.9 .6zm1.1-1.2zm2-1zm.9-.4zm-.6 2.1zm-.7 1.1zm-1.3 .8zm1.2 .8zm.8 1.3zm1.2 .5zm1.1 .2zm.5 .6zm.8 .1zm.8-.2zm-.5-1zm-.2 2.2zm-1.8 0zm-.4-3.4zm2.9-2.5zm1.1-.9zm.3-.4zm.4-.1zm1.7 .3zm1.5-.3zm-.1 1.3zm1.4 1.1zm1.2-.4zm1.9 .4zm.9 1.8zm1.2 .2zm.3 .7zm.7 .4zm-1.8 .1zm-1.7 1zm-.4-1.8zm-.6-.9zm-.7 1.1zm-1.8 2.8zm-.6-.4zm-2 2zm-.8-1.5zm-.5 2.9zm2 1.8zm3.4-2.9zm.6-1.1zm.7 .1zm2.2 .1zm1.7 2.5zm-3.8 .3zm6.2-4zm3 .8zm3.2-1.8zm2.1-.1zm-1.8-2.1zm2.1-1.4zm1.1 .5zm-.5-2.3zm-1.4-2.9zm-1.4 0zm-1.4-.4zm.3-1.9zm3.1 .6zm3 1.5zm-7 2.4zm-.1-.2zm-.4 .1zm.3 .3zm-.5 .6zm-1-.6zm-.9-.4zm-1.6 2.3zm1.2 .9zm1.4-.1zm1-.6zm-4.8-3.2zm-.9 1zm.6-3.3zm.2-.1zm.9-.9zm1 1.1zm.3-2.2zm-2.1-.3zm-1.4-.9zm.3-.5zm-.4-1.1zm.1-.1zm-.4-.1zm1.2-.6zm.9 .3zm.6 0zm.6 .4zm.5-1.8zm.6-1.2zm-.8-.2zm-.8-.3zm.4-1zm-2.1 .3zm-1.1 .5zm.4 1.6zm.2 .6zm-2.1-.4zm-1.1-.9zm-1.4 .1zm-1.2-.9zm-.4-3.3zm-.9-1.4zm.7-1.1zm1.4 0zm.5-.8zm.8 2.3zm-.3 1.3zm3.9-.2zm.8-1zm0-3.2zm-2.1 .1zm-.1-1.1zm3.1-1.7zm.4-1.5zm.9-1.5zm2.2 3.5zm.1 1.2zm-1.4-.3zm2.8-.8zm1.3-.7zm.5 .3zm1.1 1.4zm0 3.3zm-.5 2.1zm1.3 .4zm1.6-1.6zm1.4-5.4zm3.6-2.6zm.6 0zm.6 .6zm-.1 1.7zm2.5 .7zm1.6-.6zm-2.1 3.4zm-3.2-6.4zm.4-1.5zm1.2-1.4zm-.3-1zm-.2-.8zm-1 1.2zm-.8-5.3zm-4.8-7.2zm-.3-.3zm-1.1 .2zm2.9-3.2zm.3-.2zm2.2-1.1zm-6.1-8.6zm.8-2.3zm-2.7-1.7zm1.3-1.4zm-2.8-.4zm-2.1 .2zm-.6 .4zm.3 1zm-2.3 .8zm-1.6-1.7zm-1.4-.3zm-.5 1.5zm-.9 0zm-1.2-1zm-.3-1.8zm.8-.1zm.4-.6zm.2 1zm1-1.2zm.2-.5zm.2-.6zm2.8-1.2zm-.1 2.7zm3.5-4.1zm1.7 .3zm-3.2-1.7zm-1.8-.7zm-1.4-.8zm3.2-1.9zm-.7-1.4zm2.3-1.9zm.3-.4zm1.5-1.7zm-1.8-1zm-.6 .5zm.1-1.2zm-.8-2.5zm6.2 4zm2.6 .3zm.7-1zm-1.4-1.2zm.1-2.4zm1.9-.9zm1.6 1.2zm.6-.4zm1.7-4.5zm4.4 1.8zm-7.6 8.3zm-3.1 1.3zm0 .6zm-3.3 1.4zm.3 2.8zm1.2 .1zm2.2 .2zm-4.5 13.7zm-2-.4zm-.4 0zm-7.5 6.7zm-2.9-1.6zm-1-1.4zm-1.8-.6zm-1.7 0zm2.1-1.7zm.8-1.2zm-2.3-.1zm-.2-.2zm-1.6-2.5zm-.6-.5zm1.6-.3zm-.3-2.6zm2.2-.8zm1-.2zm.4 1.1zm.6-.2zm-1.3 1.8zm-5.3-2.7zm-1.2-1.7zm-.4 3.9zm-.3 .9zm-2.4-1.3zm-1 2zm-1 3.1zm.4 .7zm-2.4-.3zm0 0zm-.8 .1zm.2 2zm-2.9-2.8zm-.2-2.1zm-1.2-2.4zm-.6 6zm.1 .9zm-1.9-.4zm.5 3.2zm-2.2 2.3zm2.3 1.9zm-1.4 1.7zm.1 3zm-1.2 .8zm.5 1.5zm-.7 .1zm0 .2zm2.5-.6zm-4.1-1.5zm-1.8 .4zm-.8-.2zm.4-.7zm1.4-1.4zm-2.7-.5zm-.7 .1zm-.7-.9zm1.1-.6zm1.8-2zm-6.5 5.2zm.5 .8zm.7 1.2zm-.3 1.7zm.6 0zm-.1 .7zm1.4 3.8zm.9 .4zm1.8 .6zm-1.7 1.4zm2.2 3.6zm-2.7 .7zm.5 2.6zm-1.6-.1zm-.8-.4zm-1.5-3.4zm-2.4-3.9zm1.3-1.3zm-3.8 .2zm-.4 .1zm-1.4 1.1zm-1.9-.9zm-.9-1.5zm2.1-.1zm1.8-1.7zm-3.1 5.3zm-.4 2.8zm4 .9zm-2.4 6.7zm1.5 1.1zm1.4 2.2zm1.5 0zm2.2-2.3zm-.8-.7zm2.3 4zm2.3 .1zm-6 2.7zm-5.3-.8zm-2.7-6.1zm-.2-3zm-2-1.4zm.2-2.1zm-2.4 9zm-.2 7zm-6.6 11.3zm.7 .9zm-2.2-.4zm-3 2.6zm-.6 .1zm3.5 1.8zm1 1.1zm1.1 .8zm1.1 1.2zm-2.7 1.3zm-.6-.8zm-1.6-.9zm1.5 3.1zm-5-3.1zm-3.1 .5zm-2.4 1zm-1.3 1.1zm-3.5 .1zm-3.9-1.8zm1-2.2zm1.4-.3zm.7-.5zm-.1-.6zm1.4 .9zm2.1 .3zm2-.1zm.4-2.3zm3 .7zm.9 6.2zm-4.6 4.1zm-.1 .2zm-9.8 0zm-4.4-.8zm-.9-2.1zm3.8-6.5zm0-.3zm.5-3zm1.3-.2zm2.6 .4zm-.1-2.5zm-.2-.4zm1-.5zm-2.2 .3zm-1.4-1.7zm.5-1.6zm-1.9-1.4zm2.7-1zm-.2-1.7zm2.1-4.1zm-.3-1.2zm-5.9-4.4zm-1.2 1.4zm-2.1 2.1zm-2.7 .2zm-1 .2zm-.5-.5zm-.8-.6zm-.6 .5zm-.8 2.5zm1.4 .3zm.9-.4zm.9-.5zm-2.5 2.1zm-2.6-.2zm-.5 .1zm-1.9-3.6zm4.4-4.5zm-3.2-2.6zm3.8-2.4zm.1-3.7zm4.8 1.6zm1.6 .3zm1.3 2.1zm-.3 .7zm.8 1.5zm4.2-6.5zm-1.4-2.1zm6.8 .3zm.3 4.3zm-.7 4.1zm3.5 .3zm2-9.4zm2.9-6.4zm2.2 1.4zm2.2 5.1zm1.8-9.4zm1-2.7zm3.1-.1zm1.9-4.2zm.5 .1zm3.2 6.3zm1.3 1.7zm11.2-5.5zm1.8 .6zm6.5 6.8zm4.9 5.2zm3.9 1.2zm.9 1.1zm1.2-.3zm.1 .4zm-1.1-2.1zm-.8-3.4zm-3.1 7.5zm-.6 1.5zm.3 1.6zm-2-.2zm-.3-2.4zm4.4 .8zm1 1.5zm.4 .8zm-1.5 3.1zm-.1 1.1zm.9 1.7zm2.8 .4zm.2 .3zm2.2 .1zm.1 1.7zm2.2-1.9zm1.1 1zm1.8-1.5zm1.9-.9zm.5 1.7zm-1.7 2zm2.9 1.8zm1.5 .6zm.2 .9zm-3.1 4.9zm.6 1.3zm1.9 .9zm.3-.4zm2.1 1.1zm.2 4.6zm.1 .3zm-.5 .8zm1.6-.9zm4.1-4.6zm1.7-.7zm-.5-1.7zm1.5-1.5zm-.7-.5zm-.6-.6zm-1.5 .7zm9.7-3.2zm1 0zm0 .2zm-.2 .4zm2-3.1zm-1-.6zm-.9-.3zm0-1.1zm-2.1-2.6zm2.4-1zm2.6-6.2zm-13.7-2zm-3.6-2.1zm-4 1.5zm.1 2.1zm-1.7 3.2zm.8 .8zm2.5 .2zm-.3 3.1zm-1.5-.3zm4.1-.3zm-8.3-.8zm-3.1-2.6zm-1.5 .4zm-.2 1zm.7 1.5zm-1.4-3.4zm3.1-2.3zm1.4-1.2zm.5-1.2zm-1.4-.7zm-1.3-1.9zm1.6-.7zm-11.5 10zm-2.7-.1zm1.3 3zm.1 .1zm.7 1.6zm-1.3 2zm.7 1.7zm1-.4zm1 .2zm.6-.6zm.3-.1zm2.1-.8zm.3 2.1zm-.2 .5zm-.6 .1zm-.9 .3zm1.6 2.1zm2-1.1zm1 1.9zm2.5 .5zm-.4 1.1zm1.5 0zm.9-1.2zm1.3-.1zm-1.5 3.2zm-.7-.1zm-.1-7.9zm-8.8 5.7zm-2.7-.2zm-1.3 1.3zm-1.3 1.2zm.3 2.3zm-.2 .4zm.6 .3zm.4-.4zm-1.2 2.5zm0 .5zm-.6-.3zm-.5-.8zm-.9-.8zm3.8 2zm4.5-4.5zm2.7 5.5zm.4 1.8zm.1 1.6zm-.8 1.6zm-.6 1.5zm-1.9 0zm-1 0zm-1.4 1.1zm-2.7 .7zm-.2 .1zm-3.5-1.6zm-2.9 1.8zm1.7 1.8zm6.6 2.7zm-.9 3.5zm-2.2 4.1zm-5.6-1.8zm-15.5-11zm.2-1.8zm-3 .4zm-.1 2.6zm-2.5 3.4zm.6-8.8zm1.2-.3zm1.4-.2zm-3.1-1zm.1-1zm-.5 0zm-.9 0zm-1.2 1.3zm-16-3.3zm-2.1 1.2zm-10.9-2.3zm-.3 2.3zm-2.9-.5zm-2.4-.9zm-2-.3zm1.8-3.9zm3 1.5zm2.3-1zm.5-.2zm-14.6 .8zm-10.3 5.5zm26.7 16.8zm11.6 5.2zm-.7 3.8zm6.8-1.3zm2.6-.6zm.2 3.2zm.8 1.1zm7.3 7.8zm6.7 3.5zm8.2-41.1zm1.3-2.7zm1.4-1.3zm-2-.6zm3.4-2.7zm1.7 1.2zm.6-3.3zm-.1-.6zm-1-1.2zm4.7 1.7zm2.5-1zm3.4-1.6zm9.5 16zm-1.5 2.9zm-.4-.2zm-.5-.2zm2.3 2.8zm2.8 .9zm1.4 1.9zm25.2-5zm17.5-40.3zm23.4 20.5zm1.9 .2zm.5-1.2zm-.6-.8zm0-.3zm1.5-.4zm-67.4-36.5zm-.4-1.7zm-.6-.7zm-1.6-.2zm-1.2 .4zm.5 1.6zm-2.7 .9zm-.5 1.6zm2.6-19.7zm-.6-3.8zm2.2-3zm2 3.4zm4.3 .8zm.4-2.6zm1.8-1.7zm1.5-2.4zm-1.4-.9zm-1.2-.5zm-4.4-3.6zm.2-6.2zm-1.9-.2zm-4.2 10.3zm16.9 3.5zm-39.2-1.7zm-6.2-3.5zm-2 21.5zm9.6 1.4zm-19.6-.8zm-7.2 7.8zm-.8 3.9zm-4.3 1.9zm-3.3-5.4zm4.8-5.8zm-10.6-1.9zm-9 8.9zm-3.3 .4zm-1.2-6.8zm-6.2-9.8zm29.3-4.1zm-30.5 38.2z"/>
<path class="ps" stroke="#9e2b62" stroke-width="1.0" d="M308.5 916zm1.7-.2zm-.2-1.6zm-.6-.2zm2.9-1zm.6-.1zm0-.3zm.1-.3zm-.4-.5zm-.1 3.3zm.2 .2zm1.1-.2zm-1.4 1.4zm.3 1.5zm.1 2.2zm-1.6 2.7zm-.5 1.4zm-.5-.2zm11.5-3.5zm1.9-1.1zm.4-1.5zm-1.2-2.3zm-1.7-1.8zm-2.2 1.7zm-.5-3.4zm-2.3 .9zm3.5-4.3zm.7-1.9zm.5-.3zm.8-1.9zm-1.1-1.1zm-1.9 3.2zm4.1 .8zm2.4 1.9zm1.1-.5zm.5-.1zm.4 .9zm1.6-1zm.6 1.6zm-.8 .8zm-.6 .5zm-1 1zm2.5 .4zm.6-.3zm.8 0zm.1 .2zm.4-.4zm.1-1.9zm-.9-.7zm.7-.9zm.5-.2zm-.8-1.1zm.1-1.2zm-2.3 .3zm-2.7 .5zm-2.2 3.1zm4.8 5.5zm-.4 .4zm1.3-.1zm-1.2 2.1zm-.8 .7zm-.4 1.7zm-.3-.1zm.1 1.3zm-1.8-.2zm-.6 1.2zm1.7 3.4zm.9-.4zm1.3-2.8zm.9-.8zm2.9-1.2zm3.2 1.2zm.5-2.7zm.8-.1zm1-1zm1.8 1.1zm-1.6 1.5zm.1 2.3zm1.8 2.4zm1.3-.4zm-.5 1.6zm2.9-1.8zm2.1 .5zm.8 .3zm1.5-1.2zm.3-.8zm1.3-1.1zm1.6 1.6zm1.3-.3zm1.1-.5zm.2 .3zm0 .3zm.7-1.3zm1.1 .9zm4.1 .5zm.2 0zm-.3 .6zm-.7 2.7zm-.4 .7zm2.9-.1zm1.6-.1zm1 1.6zm-.6 .7zm1.2 1zm-1.6 .6zm-1.9-1.4zm-1.2 2.1zm-4-1.7zm-1.6 1.6zm-.4-.1zm-1.1 3.2zm-2.6-2.2zm.4-4.4zm3-.1zm-1.7-2.7zm-5.6 1.8zm.2 1.7zm-.7 1zm-1.7 1.5zm-2.4-8.8zm-.4 0zm1.7-1.2zm-.4-6zm1.8-.2zm.1-1.2zm-.3-3.5zm2.2 .4zm-.3-2.1zm-1.1-2.6zm-.1 0zm-1.1 .4zm-1.1-1.6zm3.9 .5zm2.9 3.4zm.3 .9zm-1 2.7zm4-2.8zm0-.3zm2.6 .4zm1.1 .6zm.2-2.1zm1.9 .2zm2-.3zm1.7 .9zm.5 1.7zm2.4 .5zm1-.3zm2.6 2.6zm1.3 2.8zm-1 2.1zm1.3 1.3zm-3.8-1.2zm-1.3-1.2zm-.9-.3zm-1.4-1.1zm-.5 .2zm-2-1.6zm-1.3-1.2zm.2-.3zm-1 1zm-.9 .4zm-.4-.3zm.7-1.5zm-2.1 .6zm-2.1 2.1zm-1.3 3zm-.6 .6zm6.6-2.2zm3 2zm.5 2.4zm1 2.5zm1.5 1.8zm.9-.2zm.2-2.7zm1-1.8zm2 5.3zm-1.4 1.7zm4.1 .3zm1.5 5.3zm-3.9 .2zm-2.5 .3zm10.3-9.1zm-.7-3.7zm4.6-1.3zm1.2 1.5zm1.8 1.9zm1.6 .9zm2.3-1.1zm-2.3-2.3zm-2.7-2.4zm-.7-.7zm.2-1.3zm.9 .5zm1.6-1zm1.1 .4zm3.1 .3zm.6-.2zm2.6-2.8zm1.6 .1zm1.6-.2zm.4 1.2zm-1.4-3.9zm-.5-3.8zm2.1 0zm.8 0zm1.1-.1zm-.2-1.5zm-1.4 .1zm-2.3-2.1zm-1.4-.5zm.3-3zm-2.7-1.9zm-3.1 .9zm-1.8 1.3zm-1.2 .2zm-.4 .1zm-3.6-.1zm-2.3-1.6zm-3.1 2zm-1.4-.6zm-2.5-.1zm-1.1 1.6zm-.5 .5zm2.4 1.2zm.2 .4zm2.6 .2zm3.6 .1zm2.1 .3zm1.6 1.5zm-.8 1.3zm-.8 1.6zm.5 .8zm-1.2 .6zm-.4 1.1zm-.2 .1zm0 .8zm2.2 .8zm.3 .2zm.9 .5zm1.3-1zm.6-.9zm.4 1.5zm.3-.1zm-3.3-2.2zm.7-1.7zm1.6-.2zm1-1.9zm5.5-2.2zm5.4-3zm1.7-.4zm2.9 2.6zm.5 3.8zm-1.8 .6zm-.2 .2zm-.1 .8zm4.6 3.2zm1 1.9zm1-.9zm.7 .3zm.4-1.4zm-1.4-3zm1.6-2.7zm1.6 .3zm-.2-1.6zm1.5-.3zm2.9-.3zm1-2.5zm-3.8-.2zm-2.4-.1zm.8-1.7zm.3-1.9zm.9 .1zm-.7-1.3zm-3.3-2.2zm-.8-.3zm2.4-2.6zm-4.3-3.2zm-2.7 .5zm-.9 1.4zm-1 .4zm-.3 .3zm1.1 1.8zm-1.2 1.6zm-.6-.3zm-.3 1.5zm1 .7zm-2.3 .4zm-1.4-2zm-1.5-3.8zm-.5-.2zm-.1-1.5zm-1.8 .6zm.6 1.7zm-4.3-4.4zm-2.2-1.2zm-.6 2zm-1.5 .6zm-.9-3.1zm-.8-.3zm1.4-.8zm2.8-1.3zm2.9-2.5zm-.6-1zm.8-.7zm-1.3-1zm1.9-1.4zm-3.4-.9zm-4.7 .2zm-3.4-.7zm-1.2 10.2zm.2 1.6zm.3 .4zm.8-.8zm-2.8 2.8zm-2.5 2.3zm-1.2 3zm.8 .5zm-3.8-.6zm.4-2.4zm-2.7 .6zm-.9-1.5zm.4-1.8zm.4-.9zm1.9-.3zm-4.5-.2zm-1.2-.3zm-.4-.7zm.9-.3zm1.5-1.6zm-3.3-2.6zm2.4-1.8zm-4.5 4.5zm-.4-.3zm-6.8-1.7zm-.3 4.7zm-1.6-.1zm-1.2 3.2zm-2.1-1.1zm-1-2zm-1.9 5.9zm-1.6 1.8zm.2 1.1zm-.6 3.5zm-2.7-.9zm-1 .4zm.9 2.7zm.5 .2zm-.1 .9zm1.6 4zm.9 1.6zm1.3 .4zm-1.5 1.2zm-.5 1.2zm1.5 .9zm-.5 1.2zm-3.2-1.9zm-3.7-2.5zm-1.1 5zm2.5 1.7zm-2 7.4zm0 1.2zm1 1zm2-.1zm.5 0zm-1.6 2.5zm-4.3-2.9zm-6.3 .3zm11.1 10.7zm21.8 9.9zm1.8 0zm-2.4 3.2zm24-17.1zm.5-2.3zm1.3-.3zm.8 .4zm-.1-1.4zm1.6 .8zm.2-.7zm0-.9zm.7 .3zm.5-.7zm1.1 .5zm.7 .2zm-.5 .6zm2.9 1.3zm.7 1.1zm-1.1 3.6zm-.3 2.2zm4.2 .2zm-9.2-.9zm-.1-4.3zm-4.2-3.6zm.1-.4zm-.5-.5zm.7-2.7zm1.5-.8zm.4 1.4zm10-2.9zm.7 1.7zm.9 .6zm1.1-.4zm-.5 1.9zm-1.5 .3zm1.7 1.3zm2.9-2.8zm2.5-.2zm1-.8zm1.6 .1zm.9-1zm1.8 1.5zm.7-.9zm1.1 1.1zm1.1 .1zm.1 1.2zm3.1 2zm2.3-2.2zm1.5 .8zm1.9 .4zm.8 1.4zm-2.1 .5zm-1.1 .5zm3.7-3.9zm.6-.2zm1-.6zm.8 1.1zm0 2.4zm4.6-1.5zm1 1.2zm0-2.4zm.3-.6zm2.3 1zm3.6-.7zm.3-.1zm-1-1.9zm2.2-.4zm1.2-1.1zm.9-1.8zm.4-.6zm.5 0zm.8-1.7zm1.5-.8zm-4.2 .6zm-2 .4zm1.1 1.9zm-4.2 .8zm-1.2 0zm.2 1.2zm-4.1 0zm1-3.1zm-1.5-1.7zm1.5-1.6zm2 1.7zm1.2-2.6zm1.5-1.2zm.2 .1zm.1-1.1zm1.2 2zm1 1zm-.8-5.6zm-.4-.4zm-.1-.9zm-.7-.4zm-.2 .7zm0 .6zm2.2 .2zm-.1-2.1zm-.5-.2zm-1.4-.8zm1.4-2.3zm1.3 .2zm.3-.7zm-.8-1.7zm1.3-.9zm-1.5-1.4zm.1-2.1zm-1.8-1.5zm-.6 1.3zm-1.7 0zm.2-1.8zm-1.6-.5zm1.5-1.4zm1.5 .6zm2-.7zm3.5 2.3zm1.9 2.2zm2-1.8zm1.4 1.8zm-2.8-3.7zm4.2-.8zm-.1-.5zm-.3-3zm5.2-.5zm1.3 3.6zm2.2 .9zm1.8 1.4zm.2-2.7zm-1.6-3.8zm.3-1.7zm-.3-.4zm.3-.7zm.3-1.3zm-.3-1zm1.6 2.4zm-6.6-5.2zm-1.2-.3zm-.4-9.1zm-7.4-.9zm0 3.5zm-1.7 2.2zm.1 .3zm-6.8-.1zm-.8-2.7zm1-.4zm3.3-11.4zm-.8-.9zm-.3 0zm.6-2.5zm1.8-1zm-1.8-2zm-1.1-.6zm-2.1-1.7zm.9-.9zm-3.1-1.6zm-1.2-1.8zm-.1-.8zm1.3-1zm1.8-.2zm2-2.2zm-.4-2.4zm4.2 .1zm2.5 .3zm-.8 2zm-2 1.7zm-1.2 .3zm3.5 1.3zm.8-.3zm-.8 3.2zm.7-11.2zm-.3-1.4zm1.4-1.5zm-1.5-1.9zm4.1 3.8zm1.9-2zm1.2 2.7zm.9-6.4zm1.6-1.3zm-27.3 13.2zm-.2 2zm.3 .7zm-.4 .4zm-.8-.2zm-2.3 .6zm-2.3 1.7zm.4 2.3zm.8 3.1zm0 3.5zm0 2.5zm-2.4-1.1zm-2.5 1zm-1.3-.1zm-1.4 2.3zm.9 2.8zm1.7 1.4zm3.7-2.6zm4.4-2.7zm.5 .3zm-.7-4.5zm1.6-1.9zm.9-.2zm.5 .9zm1.3-.1zm-.5 1.2zm.6 .5zm.3-.3zm1.4 .5zm1.3-1.1zm.8-1.7zm0 0zm-.4-.4zm-.3-.1zm-.2-1.6zm2.1 3.1zm.3 .3zm-1.6 3.6zm-16.9-4.5zm-1.5-2.2zm1.4-3.5zm1.1-1zm-2.3-1.8zm-2.9 1zm.1 10.5zm.3 .8zm-3.9-.3zm2.3 5.5zm.6 1.6zm.7 1.3zm-3-2zm-1.2 0zm-3.9 .2zm-.5-.5zm.4-2zm-.3 7.8zm.4 2.8zm-.7 .7zm-3.7-1.3zm9.1-2.7zm4.3 5.6zm-.5 1zm3-.2zm-7.7 13.6zm-8-6.4zm-9.7 7.8zm-11.9-6.9zm-8 8.3zm-2.3-1.6zm-2.2 2.9zm-2.4 .9zm-1.2 2.5zm-.7 2.6zm.8 2zm1.7 .8zm2.1-1.9zm2.4-.2zm.4-1.4zm-1.8-2.4zm4.4 4.3zm4.1 3.4zm1.4-.5zm4.1 .9zm1.9 1.2zm1 0zm1.1-.3zm.3-.6zm1.6 6.7zm-1.6 .6zm-2 1zm-4.4-1.5zm21.8 7zm2.1-2zm1 1.5zm1.2 2.2zm1.3 .1zm-.5-4.7zm.1-1.2zm6-.6zm.9 .3zm.9-.4zm1.2 2zm.7 1.1zm.7 1.3zm-2.1 .1zm-.3-.6zm-.1-.3zm-.8-1.3zm-1.1 2.5zm-.4 4.6zm-1.6 1.4zm-.1 .1zm.9 1.7zm-.5 .8zm2.1-1.2zm1.1 2zm.1 3zm1.7 .3zm-2.8 4.3zm5.6-14.9zm.8-.6zm.7-1.4zm-.5-1.9zm1.5-1.4zm1.8 2zm-.1 .7zm.7 .5zm1-.1zm1.7 1.7zm0 .7zm-1.7 .7zm-3.1-.1zm-4.4-6.5zm-.2-1.7zm.9-.9zm.6-1.1zm1.5-2.1zm3.4 1.1zm3.4-1.3zm.4-.6zm0 1.2zm.2 2zm-.4 1.1zm2.5-.5zm.5 .6zm.1 .6zm-1 1.7zm3.4-7.3zm-2.3-1.9zm1-2.6zm-.8-1.4zm-.3-1.9zm.4-.7zm-1.4-.5zm-.5 .1zm.1 .5zm-2 0zm1.3 1.9zm6.5-1.2zm.8 .2zm-.9-1.3zm-.1 0zm1.4-.4zm.4-1.4zm-2.1 .2zm-.1-.4zm-1.9-3.1zm-5-2.7zm-1 .2zm-14.7 11zm31.2 2.2zm1.7-3.4zm.4-.4zm1.5-.8zm-.1-.2zm36.8 4.9zm2.3 1.1zm.4-.1zm1.3 .8zm-62.6-64.5zm-.6-1.1zm-6.2-5.1zm-24.1 4.3zm-15.7-20.7zm-8 43.2zm-3.5 7.4zm-7.6 .6zm.2-3.1zm-8.2-6.8zm-13 3.3zm7.7 9.2zm1.3 .8zm.9 .7zm-4.8 12.9zm-.5 .1zm2 2.7zm-7 6zm-2.3-.6zm-1.3 1.8zm.2-4.6zm-2.7-5zm-1.5-.1zm-2.1 3zm7.7-5.2zm-8.4-13.6zm-4.7 27.6zm-.9 .3zm-1.7 1.5zm-1.4-.9zm34.6-5.6zm2.8-.3zm1.9 1.2zm1.9 1.2zm-3.2 .9zm38.8 46.9z"/>
<path class="ps" stroke="#bf3a51" stroke-width="1.0" d="M302.7 912.6zm1.8 .4zm3.2 .5zm.3 .6zm-.2 1.4zm-.4 1zm4.6 2.2zm0 .2zm.3-.6zm.3 1.3zm.8-6.3zm5.4 .9zm1-.2zm.9-.6zm-.5-.7zm.7 3zm-2.7 .9zm5.1 1.3zm.8 3.6zm2.6-.1zm4-.5zm2.5-1.9zm.6-.6zm2.6 .9zm1.6 .7zm-1.6 2.1zm-.7 .5zm5.3-1.7zm.7 .3zm4.2-3.3zm2.6-1zm2.4-.7zm0 1.7zm1.7 1zm2 3.1zm.8 0zm1.5 2.1zm-2.1 1zm-2.5-.3zm0 2.2zm-.4 2.7zm1.7 1.1zm2 2.1zm1.6-1.2zm2.4-3.7zm0-1.2zm.6-2.4zm-1.3-1.5zm2.1-2.2zm.6-.9zm1.2 .9zm1.1-3.1zm-2.3-.7zm2-2.9zm-.4-2zm-1-1.2zm-.6-.3zm-1 .8zm-.3-.9zm.6 2.1zm-2.6 2.3zm-.8 2.8zm-4.9-2.9zm-2.1-.4zm.6-3zm2.1 .6zm.6 .6zm1.6-1.2zm2.6-.8zm-.7-1.3zm-1.3-1.5zm-.7 .1zm-1.8 .3zm-4.9-1.9zm-1.3-1.5zm-2.5-.8zm-1.8 2.1zm-1.3 2.2zm.6 1.2zm2.5 .8zm1.6 .6zm.8-1zm.6 .2zm.5-.2zm-.1 1.6zm.5 .2zm-1.3-3.5zm-2.1 6.4zm-1.7-.2zm-1.5-1.5zm-.9 1.6zm-.5-.1zm-.7-2.7zm-.6-.7zm-2.3 .4zm-.7 .1zm-1-1.2zm-.4 0zm-.4-.6zm-.4-.2zm-.7 2.6zm-.2 .7zm.9 .4zm.4 2.1zm-4.2-.5zm-.4-1.8zm-.4-.7zm-.4 0zm-.4-1.5zm-.7-.1zm-1.2 .3zm-.7-1.7zm-2.4 .2zm2.4-2.7zm3.8 1.3zm.1 1zm-.2 .1zm.7 .5zm-.2 .6zm.4-3.3zm2.2-.7zm3.6 1.3zm1.9-1.5zm1.6-.5zm-1.7-1.2zm-1.2 .2zm-1.7-6.4zm3.5-4zm-2.2-2.4zm6.4 5.1zm4.3-6.3zm2.3-1.4zm1.7-3.4zm5.5 4zm1-1.5zm4 1.4zm1.5 .3zm1.1 3.7zm-.1 .5zm.9 .4zm.7-1.1zm-3.7 2.4zm4.6 3.6zm-1.3 3.1zm-1.1-.7zm3.7 1.7zm.3 .4zm1.1-1.6zm3.7-.5zm-1.9 5.1zm3.9 .9zm.5 3zm.3 .2zm-1 1.3zm1.4 .6zm2 1.6zm.4 .2zm1.8 .1zm-1.1 2.4zm2.9 0zm-.7 2zm-2.3 4.1zm.7 2.9zm0 1.5zm2.3-1.6zm3-2.2zm.7 .1zm1.3 2.1zm-.2 2.1zm-1.2 1.1zm-.2 2.3zm-1.6 .7zm-.8 2.4zm-2.7 .7zm-1.1-1.8zm-4.2 1.5zm-1.3-3.3zm-2.6 1.3zm-.6 1.7zm1.5-5.8zm-4.8-2.1zm.4-3.3zm.6-2.6zm2.1-5.5zm2.2-.5zm-2.6-2.7zm-1.7-1.8zm-.8-1.2zm-2.2 6.6zm11-.1zm3.4-5.6zm-1.3-2.3zm4.1 3zm.4 2.6zm1.8-.8zm.2 .3zm-1.9-7.5zm3.8-.2zm0-1.5zm-2.9-3.9zm-1.2-1.4zm-2.9 2.8zm-1.4 .1zm2-9.2zm-4-.3zm-1.5-.6zm-1.2-1.7zm.6-.7zm.4 .2zm-3.4-.6zm-2.4 .6zm.6 1.4zm12.8-3.6zm3 2.6zm1.2 2.1zm4.5 2.1zm.3-4.2zm6.1 9.1zm-2.3 1.5zm-1.4 3.2zm1.5 .3zm1 .6zm3.1-.6zm.4 .7zm-1 4.6zm2 1.3zm2.9-1.5zm1.5 2.4zm2.4-.6zm.9-.2zm4.2-1.4zm0-1.1zm-1.9-1.4zm2.6-3zm1.3 .9zm1.6 1.8zm3.4-2zm2.1-.7zm1.1 1.3zm3.6 2.3zm1.5 4.1zm.3 2.8zm2.7-2.6zm3.5-.2zm-1.4-6zm-2.6-1.2zm-1.1-8.8zm-4.4 .6zm-5.4 4zm0 11.1zm3.6 1.4zm-4.7 4.2zm-1 1.9zm.8 .8zm-.9 4.4zm1.6 1.3zm.2 1.4zm-2.1 0zm-3.3 1.3zm-4.4-.1zm-1.6-2.7zm.9-3.4zm-2.5-1.2zm-1.9-.4zm-.1-3zm1.1-2.5zm-4.1-.6zm-.2 .5zm-.7 3.5zm.2 2.4zm-1.4 0zm-2 .2zm.2 .9zm-.4-2.4zm.3-1.5zm-.2-2zm-3.4-2.1zm1.3-3.1zm1.4-1.1zm7.9-10.4zm-1.1-2.2zm-1.8-1zm6.2-4.9zm-.4 10.5zm3.1 14.2zm-.6 1zm1.2 1.7zm2.3 2.3zm3.4-5.4zm7.5 4.3zm1.7 .2zm.8 .4zm0 1.6zm-1.1 2.2zm2.5 .1zm-5.5-2.1zm6.7-3.7zm4.9 2.9zm3.1 .3zm.2 1.6zm2.1-1.5zm-2.2-2.3zm-2.6 5.4zm.1 2.2zm2.3-1.2zm-4.3 4.5zm-15.3 2.9zm-.4 .8zm-.3 1.3zm-7.8 2.3zm-.3 2zm-3.4 1.3zm.8-4.9zm.2-.7zm-1.9-3.3zm-2.7-2.1zm-1-.3zm-.3 .6zm-.9 .4zm.2 1.2zm-.3 .5zm-3.1-1zm-1.2-.3zm-1.1 .8zm-1.4 1.7zm3.1 2.4zm.6 .9zm-5.1 4zm-.5 2.1zm2.4 4.3zm-6.8-10.2zm5.8-7.9zm1.6-.5zm2.9 .4zm1.5-4.2zm-.1-.6zm5.5-.8zm-1.5 5.1zm-37.7 .2zm-1.9-1.2zm2.3 9.6zm-12.8 13.6zm-2.4 3zm1.9 2.4zm-5.7-25.4zm0-3.7zm-17.1-8.6zm-2.6-4.8zm-7.4-6.2zm.7-2.1zm2.2-1.5zm.5-5.1zm-8.4 7.4zm-4.6-1.2zm-2.6 4.1zm1.2 16.8zm12.8-2.5zm3.4 5.6zm26.4-27.7zm.5-.9zm4.1 0zm.7-1.1zm5 7.1zm-3.3-27.2zm-3.7-1.2zm-6.1-6.9zm5.5-3.5zm-.2-.6zm14.9 10zm18.2 2.3zm6.1-1.4zm.9-3.3zm1.1-1.5zm.9-2.4zm.4-2.5zm1.9-.5zm.1 1.7zm.4 1.1zm1.6 0zm1.8 .8zm-.1 1.7zm-.1 1.6zm-2.9 1.7zm6.1-5.1zm.9 0zm-2.1-1.6zm1.3-2zm.1-1.7zm1.6 .7zm2.6 1zm1.6 .1zm-.2-2.1zm3-2.8zm.2 .2zm1.6-5.3zm-1.2-.3zm-1.8-.3zm-2.3-3.8zm-2.6-4zm6.2 .5zm1.1 .4zm0 .2zm1.7 .4zm2.8 .9zm5.3 .8zm2.6-.4zm.8 .6zm.3 1.9zm.9 .7zm1.3-.2zm.1 .5zm.2 .7zm.7-.8zm-3.3 .7zm-.6 4.3zm1 1.2zm2.8 .2zm.9 1.5zm1.4-.4zm.9-.9zm-.3-.9zm.4-.2zm-.3 5.6zm-1.6 3.2zm6.8 5.5zm0 3zm4.7 12.3zm-1.8 3.5zm-1.8 1.5zm-1.5-.6zm-.2-1.6zm5.7 4.6zm6.2-6.4zm27.9 17.4zm-58.2-37.8zm-1.7-3.1zm2.3-.6zm0-3.7zm.3-4.6zm2.3-1.7zm11.5-4.1zm2.8-2.5zm-1-1.4zm.7-1.2zm.6-2.1zm-2.3-1.8zm-4.4 3.2zm8.2 1.8zm1.5-9.1zm-.1-.5zm-.7-.3zm.2-.7zm1.1-.6zm-.1-.6zm-3.1 .7zm.2 1.2zm3.9-5.2zm-2.9-2.9zm-23.4 14.1zm-12.7 17.5zm-1.8 .4zm1 2.6zm13 4.2zm-8.7 10.1zm-.8-.3zm-16.6-8.3zm3.9-19.2zm-14.3-9.9zm-52.7 12.3z"/>
<path class="ps" stroke="#db4f3c" stroke-width="1.0" d="M305 912.8zm1.4 1zm1-.2zm1.3-.3zm-.6 2.8zm3.5 1.2zm0-3.7zm4.1-1.3zm1.5-.2zm0 1.6zm.5 .1zm6.1-1.4zm1.8-.4zm1.2 1.3zm.1 1.1zm1.3-1.3zm0-1.8zm.5-.3zm.3-.9zm-.3-.4zm-2.7 0zm-2.4 .5zm-.8-.1zm-1.4-3.2zm.6-1.1zm.4-.1zm-2.5 .7zm-2.1-1.6zm1.3-1.1zm-4.3 2.2zm-2.5 .2zm-4.2 1.3zm17.7-1.5zm.3-.9zm6 1.5zm-.1 1zm-.3 .6zm2.3 2.2zm1 .1zm.1 2.1zm.5 .6zm-.8 1.4zm.3 .6zm-1.7 2.3zm-1.8-1.6zm-1 .6zm-1.7 .7zm.5 .7zm-1.6-.5zm-.1 .2zm-.7 3.4zm1.9 2.4zm-5.2-6.5zm14.7 1zm0 .4zm.1 1.6zm3.3-4.4zm2.9-2.5zm0-.8zm1.5-1.1zm1.2 .6zm.9 2.9zm2.7-.5zm1.2-4.4zm-8.1-4.2zm-1.2 4.3zm-.6 1.6zm-8-7zm-3.6-8.1zm-7.8 1.2zm-1.5-9.7zm20.4-21.4zm19.4 26.1zm19.9 22.7zm14.3 2.9zm1.6 9.9zm19.7 2.2zm24.2-14.6zm-5.3-40.1zm-7.3-14.5zm0-2.2zm3-3.4zm-2.6-5zm7.6-1.7zm4.5-12.7zm2.8 0zm3.4 .7zm-24.9 22.2zm-3.6 1.4zm-.8-2.9zm-1.4 5.1zm3.3 1.4zm-1.6 5.5zm-7.6-2.2zm-2.3-.3zm-3.4-1.9zm-8.4 1.6zm-14.4-25.5zm-31.1 82.2zm8.4 5z"/>
<path class="ps" stroke="#ee6f21" stroke-width="1.0" d="M308.1 912.4zm4 .7zm.3-2.7zm5 1.6zm1.1-1.6zm.5 2.9zm1.1 1.6zm1.2 3zm-5.5-1.1zm-.7-1.8zm7.4-2.9zm2.1-1.7zm2.1-1.3zm1.4-.6zm.6 1.7zm-1.2 .6zm2.1 .5zm.6-.5zm2.8 1.4zm1.5 1.6zm.7-1.3zm.5-2.5zm-.5-1.2zm3.2 4zm-7.6 1.1zm-.1 0zm-2.8 3.3zm-5.3-8.6zm-1.7-1.4z"/>
<path class="ps" stroke="#f89310" stroke-width="1.0" d="M317.4 912.6zm4-.3zm2.9 .9zm2.6 .7zm-.2-2.5zm.4-1.8zm1.9 1.9zm3.3 0zm1.8-.4zm-9.9-1z"/>
<text x="1.9" y="9" class="b" font-size="10.2">a</text>
<text x="148.9" y="9" class="b" font-size="10.2">b</text>
<text x="296.7" y="9" class="b" font-size="10.2">d</text>
<text x="452.6" y="7.8" class="b" font-size="10.2">f</text>
<text x="1.6" y="181.1" class="b" font-size="10.2">c</text>
<text x="295.8" y="181.1" class="b" font-size="10.2">e</text>
<text x="527.4" y="181.3" class="b" font-size="10.2">g</text>
<text x="2.2" y="389.1" class="b" font-size="10.2">h</text>
<text x="2.2" y="595.8" class="b" font-size="10.2">i</text>
<text x="2.2" y="802.3" class="b" font-size="10.2">j</text>
<text x="68.3" y="23.6" class="m">Ly6G</text>
<linearGradient id="gr" x1="0" y1="0" x2="1" y2="0"><stop offset="0" stop-color="#000"/><stop offset="0.5" stop-color="#7a0000"/><stop offset="1" stop-color="#ff1010"/></linearGradient>
<rect x="0.5" y="29.8" width="135.5" height="5" fill="url(#gr)" stroke="#000" stroke-width="1.2"/>
<rect x="147.6" y="30.6" width="43.6" height="4.1" fill="#ff7f0e" stroke="#000" stroke-width="1"/>
<text x="169.4" y="24.1" class="m">uro</text>
<rect x="193.4" y="30.6" width="43.6" height="4.1" fill="#2ca02c" stroke="#000" stroke-width="1"/>
<text x="214.3" y="24.1" class="m">lp</text>
<rect x="239.3" y="30.6" width="43.6" height="4.1" fill="#1f77b4" stroke="#000" stroke-width="1"/>
<text x="261.1" y="24.1" class="m">msc</text>
<rect x="294.6" y="30.6" width="43.6" height="4.1" fill="#fdb863" stroke="#000" stroke-width="1"/>
<text x="317" y="24.1" class="m">cluster 0</text>
<rect x="340.5" y="30.6" width="43.6" height="4.1" fill="#91d25d" stroke="#000" stroke-width="1"/>
<text x="362" y="24.1" class="m">cluster 1</text>
<rect x="386.3" y="30.6" width="43.6" height="4.1" fill="#5b4db0" stroke="#000" stroke-width="1"/>
<text x="408.7" y="24.1" class="m">cluster 2</text>
<text x="581.2" y="9.8" class="e">[PC(O-36:4)+H]<tspan dy="-3.5" font-size="6.8">+</tspan></text>
<path class="tk" d="M586 6h3.6"/>
<rect class="bar" x="589.6" y="1.9" width="3.3" height="8.2" fill="#5a4a2a"/>
<rect class="bar" x="592.9" y="1.9" width="0.8" height="8.2" fill="#fdb863"/>
<rect class="bar" x="593.7" y="1.9" width="37.6" height="8.2" fill="#91d25d"/>
<rect class="bar" x="631.2" y="1.9" width="11.4" height="8.2" fill="#5b4db0"/>
<text x="581.2" y="22.5" class="e">[PC(36:4)+K]<tspan dy="-3.5" font-size="6.8">+</tspan></text>
<path class="tk" d="M586 18.7h3.6"/>
<rect class="bar" x="589.6" y="14.6" width="42.7" height="8.2" fill="#8f8f8f"/>
<rect class="bar" x="632.3" y="14.6" width="34.3" height="8.2" fill="#fdb863"/>
<rect class="bar" x="666.5" y="14.6" width="22.2" height="8.2" fill="#91d25d"/>
<rect class="bar" x="688.8" y="14.6" width="16.3" height="8.2" fill="#5b4db0"/>
<text x="581.2" y="35.3" class="e">[SM(34:1;O2)+Na]<tspan dy="-3.5" font-size="6.8">+</tspan></text>
<path class="tk" d="M586 31.5h3.6"/>
<rect class="bar" x="589.6" y="27.4" width="11" height="8.2" fill="#8f8f8f"/>
<rect class="bar" x="600.6" y="27.4" width="55.1" height="8.2" fill="#fdb863"/>
<rect class="bar" x="655.7" y="27.4" width="28.6" height="8.2" fill="#91d25d"/>
<rect class="bar" x="684.3" y="27.4" width="10.6" height="8.2" fill="#5b4db0"/>
<text x="581.2" y="48" class="e">[SM(42:2;O2)+K]<tspan dy="-3.5" font-size="6.8">+</tspan></text>
<path class="tk" d="M586 44.2h3.6"/>
<rect class="bar" x="589.6" y="40.1" width="3.3" height="8.2" fill="#8f8f8f"/>
<rect class="bar" x="592.9" y="40.1" width="48" height="8.2" fill="#fdb863"/>
<rect class="bar" x="640.8" y="40.1" width="8.8" height="8.2" fill="#91d25d"/>
<rect class="bar" x="649.6" y="40.1" width="14.7" height="8.2" fill="#5b4db0"/>
<text x="581.2" y="60.8" class="e">[PC(38:4)+K]<tspan dy="-3.5" font-size="6.8">+</tspan></text>
<path class="tk" d="M586 57h3.6"/>
<rect class="bar" x="589.6" y="52.9" width="12.7" height="8.2" fill="#8f8f8f"/>
<rect class="bar" x="602.3" y="52.9" width="13.3" height="8.2" fill="#fdb863"/>
<rect class="bar" x="615.5" y="52.9" width="41.8" height="8.2" fill="#91d25d"/>
<rect class="bar" x="657.4" y="52.9" width="5.3" height="8.2" fill="#5b4db0"/>
<text x="581.2" y="73.5" class="e">[PC(O-32:0)+H]<tspan dy="-3.5" font-size="6.8">+</tspan></text>
<path class="tk" d="M586 69.7h3.6"/>
<rect class="bar" x="589.6" y="65.6" width="1.2" height="8.2" fill="#8f8f8f"/>
<rect class="bar" x="590.8" y="65.6" width="3.7" height="8.2" fill="#fdb863"/>
<rect class="bar" x="594.5" y="65.6" width="11.8" height="8.2" fill="#91d25d"/>
<rect class="bar" x="606.3" y="65.6" width="0.6" height="8.2" fill="#5b4db0"/>
<text x="581.2" y="86.2" class="e">[DG(34:2)+H]<tspan dy="-3.5" font-size="6.8">+</tspan></text>
<path class="tk" d="M586 82.4h3.6"/>
<rect class="bar" x="589.6" y="78.3" width="0.8" height="8.2" fill="#8f8f8f"/>
<rect class="bar" x="590.4" y="78.3" width="16.7" height="8.2" fill="#fdb863"/>
<rect class="bar" x="607.2" y="78.3" width="4.3" height="8.2" fill="#91d25d"/>
<rect class="bar" x="611.4" y="78.3" width="6.3" height="8.2" fill="#5b4db0"/>
<text x="581.2" y="99" class="e">[PC(O-34:1)+H]<tspan dy="-3.5" font-size="6.8">+</tspan></text>
<path class="tk" d="M586 95.2h3.6"/>
<rect class="bar" x="589.6" y="91.1" width="2.4" height="8.2" fill="#3c3c2c"/>
<rect class="bar" x="592" y="91.1" width="12.2" height="8.2" fill="#91d25d"/>
<rect class="bar" x="604.3" y="91.1" width="5.9" height="8.2" fill="#5b4db0"/>
<text x="581.2" y="111.7" class="e">[DG(32:0)+H]<tspan dy="-3.5" font-size="6.8">+</tspan></text>
<path class="tk" d="M586 107.9h3.6"/>
<rect class="bar" x="589.6" y="103.8" width="4.9" height="8.2" fill="#8f8f8f"/>
<rect class="bar" x="594.5" y="103.8" width="10.2" height="8.2" fill="#fdb863"/>
<rect class="bar" x="604.7" y="103.8" width="5.7" height="8.2" fill="#91d25d"/>
<rect class="bar" x="610.4" y="103.8" width="6.9" height="8.2" fill="#5b4db0"/>
<text x="581.2" y="124.5" class="e">[SM(42:2;O2)+Na]<tspan dy="-3.5" font-size="6.8">+</tspan></text>
<path class="tk" d="M586 120.7h3.6"/>
<rect class="bar" x="589.6" y="116.6" width="0.8" height="8.2" fill="#8f8f8f"/>
<rect class="bar" x="590.4" y="116.6" width="10.2" height="8.2" fill="#fdb863"/>
<rect class="bar" x="600.6" y="116.6" width="1.4" height="8.2" fill="#91d25d"/>
<rect class="bar" x="602" y="116.6" width="10.6" height="8.2" fill="#5b4db0"/>
<path class="ax" d="M589.6 0V129.1H711"/>
<path class="tk" d="M589.6 129.1v3.2"/>
<text x="589.6" y="144.6" class="m">0</text>
<path class="tk" d="M610.4 129.1v3.2"/>
<text x="610.4" y="144.6" class="m">0.5</text>
<path class="tk" d="M631.2 129.1v3.2"/>
<text x="631.2" y="144.6" class="m">1</text>
<path class="tk" d="M652.1 129.1v3.2"/>
<text x="652.1" y="144.6" class="m">1.5</text>
<path class="tk" d="M672.9 129.1v3.2"/>
<text x="672.9" y="144.6" class="m">2</text>
<path class="tk" d="M693.7 129.1v3.2"/>
<text x="693.7" y="144.6" class="m">2.5</text>
<text x="650" y="159" class="m">mean(|shap value|)</text>
<text x="689.3" y="75.4" class="m">clusters</text>
<rect class="bar" x="676.6" y="82.4" width="17.8" height="8.4" fill="#8f8f8f"/>
<text x="708.6" y="90.6" class="e">-1</text>
<rect class="bar" x="676.6" y="94" width="17.8" height="8.4" fill="#fdb863"/>
<text x="708.6" y="102.2" class="e">0</text>
<rect class="bar" x="676.6" y="105.6" width="17.8" height="8.4" fill="#91d25d"/>
<text x="708.6" y="113.8" class="e">1</text>
<rect class="bar" x="676.6" y="117.2" width="17.8" height="8.4" fill="#5b4db0"/>
<text x="708.6" y="125.4" class="e">2</text>
<text x="649.3" y="10.8" class="m" font-size="9.5">*</text>
<text x="653.8" y="8.4" class="m" font-size="5.8">#</text>
<text x="612.6" y="74.1" class="m" font-size="9.5">*</text>
<text x="615.2" y="99.6" class="m" font-size="9.5">*</text>
<path d="M477.8 129.8V8" fill="none" stroke="#000" stroke-width="2"/>
<path d="M477.8 1.6l5.2 8h-10.4z"/>
<text transform="translate(475.2 65.8) rotate(-90)" class="m">feature importance</text>
<text x="483.4" y="143.6"><tspan dy="-0.5">*</tspan><tspan dy="0.5">on-tissue MS/MS</tspan></text>
<text x="483.4" y="156.4"><tspan dy="-2.3" font-size="7.4">#</tspan><tspan dy="2.3">LC-MS/MS</tspan></text>
<path d="M14.7 302.6V339.8H51.9" fill="none" stroke="#000" stroke-width="1.75" stroke-linecap="square"/>
<path d="M14.7 295.3l4.3 8.3h-8.6z"/>
<path d="M59.2 339.8l-8.3 -4.3v8.6z"/>
<text transform="translate(9.2 317.8) rotate(-90)" class="m" font-size="10.6">UMAP 2</text>
<text x="36.7" y="354" class="m" font-size="10.6">UMAP 1</text>
<text x="20.4" y="182.1">n=4</text>
<path d="M309 302.6V339.8H346.2" fill="none" stroke="#000" stroke-width="1.75" stroke-linecap="square"/>
<path d="M309 295.3l4.3 8.3h-8.6z"/>
<path d="M353.5 339.8l-8.3 -4.3v8.6z"/>
<text transform="translate(303.5 317.8) rotate(-90)" class="m" font-size="10.6">UMAP 2</text>
<text x="331" y="354" class="m" font-size="10.6">UMAP 1</text>
<text x="314.7" y="182.1">n=4</text>
<circle cx="149.2" cy="303.9" r="3.65" fill="#ff7f0e"/>
<text x="158.6" y="307.5">uro</text>
<circle cx="149.2" cy="315.9" r="3.65" fill="#2ca02c"/>
<text x="158.6" y="319.5">lp</text>
<circle cx="149.2" cy="327.6" r="3.65" fill="#1f77b4"/>
<text x="158.6" y="331.2">msc</text>
<circle cx="460" cy="292.7" r="3.65" fill="#8f8f8f"/>
<text x="469.4" y="296.3">cluster -1</text>
<circle cx="460" cy="304.5" r="3.65" fill="#fdb863"/>
<text x="469.4" y="308.1">cluster 0</text>
<circle cx="460" cy="316.2" r="3.65" fill="#91d25d"/>
<text x="469.4" y="319.8">cluster 1</text>
<circle cx="460" cy="327.8" r="3.65" fill="#5b4db0"/>
<text x="469.4" y="331.4">cluster 2</text>
<path d="M217.4 175.5V213.2H254.7" fill="none" stroke="#000" stroke-width="1.75" stroke-linecap="square"/>
<path d="M217.4 168.2l4.3 8.3h-8.6z"/>
<path d="M262 213.2l-8.3 -4.3v8.6z"/>
<text transform="translate(211.6 190.4) rotate(-90)" class="m" font-size="10.6">UMAP 2</text>
<text x="239.6" y="227" class="m" font-size="10.6">UMAP 1</text>
<path d="M217.4 238.5V276.2H254.7" fill="none" stroke="#000" stroke-width="1.75" stroke-linecap="square"/>
<path d="M217.4 231.2l4.3 8.3h-8.6z"/>
<path d="M262 276.2l-8.3 -4.3v8.6z"/>
<text transform="translate(211.6 253.4) rotate(-90)" class="m" font-size="10.6">UMAP 2</text>
<text x="239.6" y="290" class="m" font-size="10.6">UMAP 1</text>
<path d="M217.4 301.5V339.2H254.7" fill="none" stroke="#000" stroke-width="1.75" stroke-linecap="square"/>
<path d="M217.4 294.2l4.3 8.3h-8.6z"/>
<path d="M262 339.2l-8.3 -4.3v8.6z"/>
<text transform="translate(211.6 316.4) rotate(-90)" class="m" font-size="10.6">UMAP 2</text>
<text x="239.6" y="353" class="m" font-size="10.6">UMAP 1</text>
<path d="M613 190.6L613.00 212.90A22.3 22.3 0 1 0 593.95 202.19z" fill="#ff7f0e" stroke="#ff7f0e" stroke-width="0.3"/>
<path d="M613 190.6L593.95 202.19A22.3 22.3 0 0 0 605.58 211.63z" fill="#2ca02c" stroke="#2ca02c" stroke-width="0.3"/>
<path d="M613 190.6L605.58 211.63A22.3 22.3 0 0 0 613.00 212.90z" fill="#1f77b4" stroke="#1f77b4" stroke-width="0.3"/>
<path d="M613.5 252.8L613.50 275.10A22.3 22.3 0 0 0 617.13 274.80z" fill="#ff7f0e" stroke="#ff7f0e" stroke-width="0.3"/>
<path d="M613.5 252.8L617.13 274.80A22.3 22.3 0 1 0 601.08 271.32z" fill="#2ca02c" stroke="#2ca02c" stroke-width="0.3"/>
<path d="M613.5 252.8L601.08 271.32A22.3 22.3 0 0 0 613.50 275.10z" fill="#1f77b4" stroke="#1f77b4" stroke-width="0.3"/>
<path d="M613 318L613.00 340.30A22.3 22.3 0 0 0 614.26 340.26z" fill="#ff7f0e" stroke="#ff7f0e" stroke-width="0.3"/>
<path d="M613 318L614.26 340.26A22.3 22.3 0 1 0 608.00 296.27z" fill="#2ca02c" stroke="#2ca02c" stroke-width="0.3"/>
<path d="M613 318L608.00 296.27A22.3 22.3 0 0 0 613.00 340.30z" fill="#1f77b4" stroke="#1f77b4" stroke-width="0.3"/>
<path d="M598.4 207.4L596.6 210.3" stroke="#000" stroke-width="1.3"/>
<path d="M608.3 212.7L607.7 215.3" stroke="#000" stroke-width="1.3"/>
<path d="M625.9 208.0L629.7 210.9" stroke="#000" stroke-width="1.3"/>
<path d="M606.6 274.4L605.4 277.3" stroke="#000" stroke-width="1.3"/>
<path d="M615.9 275.0L616.5 277.9" stroke="#000" stroke-width="1.3"/>
<path d="M630.3 267.1L634.1 269.7" stroke="#000" stroke-width="1.3"/>
<path d="M597.8 334.9L595.2 338.2" stroke="#000" stroke-width="1.3"/>
<path d="M613.0 339.9L613.0 342.8" stroke="#000" stroke-width="1.3"/>
<path d="M629.7 332.9L632.9 335.5" stroke="#000" stroke-width="1.3"/>
<text x="579.5" y="222" class="m">10.9%</text>
<text x="612.6" y="226.7" class="m">5.4%</text>
<text x="647.1" y="221.4" class="m">83.7%</text>
<text x="589.2" y="287.8" class="m">9.3%</text>
<text x="620.6" y="290.2" class="m">2.6%</text>
<text x="647.2" y="280.8" class="m">88%</text>
<text x="582.2" y="349.3" class="m">46.4%</text>
<text x="616.8" y="354.5" class="m">0.9%</text>
<text x="651.2" y="345.2" class="m">52.7%</text>
<text transform="translate(558.4 198) rotate(-90)" class="m b" fill="#fdb863">cluster 0</text>
<text transform="translate(558.4 259) rotate(-90)" class="m b" fill="#91d25d">cluster 1</text>
<text transform="translate(558.4 322) rotate(-90)" class="m b" fill="#5b4db0">cluster 2</text>
<circle cx="675.9" cy="303.9" r="3.65" fill="#ff7f0e"/>
<text x="685.3" y="307.5">uro</text>
<circle cx="675.9" cy="315.9" r="3.65" fill="#2ca02c"/>
<text x="685.3" y="319.5">lp</text>
<circle cx="675.9" cy="327.6" r="3.65" fill="#1f77b4"/>
<text x="685.3" y="331.2">msc</text>
<text x="115.6" y="408.3" class="e">[SM(42:2;O2)+K]<tspan dy="-3.5" font-size="6.8">+</tspan></text>
<path class="tk" d="M120 404.5h3.6"/>
<rect class="bar" x="123.6" y="400.4" width="114.9" height="8.2" fill="#fff"/>
<text x="115.6" y="421.1" class="e">[SM(34:1;O2)+Na]<tspan dy="-3.5" font-size="6.8">+</tspan></text>
<path class="tk" d="M120 417.3h3.6"/>
<rect class="bar" x="123.6" y="413.2" width="51.9" height="8.2" fill="#fdf7ee"/>
<text x="115.6" y="433.9" class="e">[Cer(40:1;O)+Na]<tspan dy="-3.5" font-size="6.8">+</tspan></text>
<path class="tk" d="M120 430.1h3.6"/>
<rect class="bar" x="123.6" y="426" width="21.8" height="8.2" fill="#fff"/>
<text x="115.6" y="446.7" class="e">[DG(34:2)+H]<tspan dy="-3.5" font-size="6.8">+</tspan></text>
<path class="tk" d="M120 442.9h3.6"/>
<rect class="bar" x="123.6" y="438.8" width="21.3" height="8.2" fill="#f4bf7c"/>
<text x="115.6" y="459.5" class="e">[PC(36:4)+K]<tspan dy="-3.5" font-size="6.8">+</tspan></text>
<path class="tk" d="M120 455.7h3.6"/>
<rect class="bar" x="123.6" y="451.6" width="14.1" height="8.2" fill="#f3be7a"/>
<text x="115.6" y="472.3" class="e">[TG(52:4)+H]<tspan dy="-3.5" font-size="6.8">+</tspan></text>
<path class="tk" d="M120 468.5h3.6"/>
<rect class="bar" x="123.6" y="464.4" width="11.4" height="8.2" fill="#f8d5a6"/>
<text x="115.6" y="485.1" class="e">[SM(42:2;O2)+Na]<tspan dy="-3.5" font-size="6.8">+</tspan></text>
<path class="tk" d="M120 481.3h3.6"/>
<rect class="bar" x="123.6" y="477.2" width="10.7" height="8.2" fill="#fdf6ec"/>
<text x="115.6" y="497.9" class="e">[DG(32:0)+H]<tspan dy="-3.5" font-size="6.8">+</tspan></text>
<path class="tk" d="M120 494.1h3.6"/>
<rect class="bar" x="123.6" y="490" width="8.8" height="8.2" fill="#f6c992"/>
<text x="110.1" y="510.7" class="e">409.27 <tspan class="i">m/z</tspan></text>
<path class="tk" d="M120 506.9h3.6"/>
<rect class="bar" x="123.6" y="502.8" width="8" height="8.2" fill="#fbefde"/>
<text x="110.1" y="523.5" class="e">361.21 <tspan class="i">m/z</tspan></text>
<path class="tk" d="M120 519.7h3.6"/>
<rect class="bar" x="123.6" y="515.6" width="6.2" height="8.2" fill="#fff"/>
<path class="ax" d="M123.6 397.3V527.7H239.1"/>
<path class="tk" d="M123.6 527.7v3.2"/>
<text x="123.6" y="542.8" class="m">0</text>
<path class="tk" d="M146.6 527.7v3.2"/>
<text x="146.6" y="542.8" class="m">0.2</text>
<path class="tk" d="M169.6 527.7v3.2"/>
<text x="169.6" y="542.8" class="m">0.4</text>
<path class="tk" d="M192.5 527.7v3.2"/>
<text x="192.5" y="542.8" class="m">0.6</text>
<path class="tk" d="M215.5 527.7v3.2"/>
<text x="215.5" y="542.8" class="m">0.8</text>
<path class="tk" d="M238.5 527.7v3.2"/>
<text x="238.5" y="542.8" class="m">1</text>
<text x="180.3" y="556.9" class="m">feature importance</text>
<text x="180.7" y="389.5" class="m b" fill="#fdb863">cluster 0</text>
<linearGradient id="g0" x1="0" y1="1" x2="0" y2="0"><stop offset="0" stop-color="#fff"/><stop offset="1" stop-color="#f7b860"/></linearGradient>
<rect class="bar" x="204.3" y="478.7" width="9.7" height="45.3" fill="url(#g0)" stroke-width="1.6"/>
<path class="tk" d="M210.6 501.3h3.4"/>
<text x="217.6" y="486.6">0.73</text>
<text x="217.6" y="505.8">0.41</text>
<text x="217.6" y="523.9">0.09</text>
<text transform="translate(201 501) rotate(-90)" class="m">Corr.</text>
<text x="115.6" y="614.9" class="e">[PC(O-36:4)+H]<tspan dy="-3.5" font-size="6.8">+</tspan></text>
<path class="tk" d="M120 611.1h3.6"/>
<rect class="bar" x="123.6" y="607" width="114.9" height="8.2" fill="#9fd069"/>
<text x="115.6" y="627.7" class="e">[PC(38:4)+K]<tspan dy="-3.5" font-size="6.8">+</tspan></text>
<path class="tk" d="M120 623.9h3.6"/>
<rect class="bar" x="123.6" y="619.8" width="82" height="8.2" fill="#fff"/>
<text x="115.6" y="640.5" class="e">[PC(36:4)+K]<tspan dy="-3.5" font-size="6.8">+</tspan></text>
<path class="tk" d="M120 636.7h3.6"/>
<rect class="bar" x="123.6" y="632.6" width="70.2" height="8.2" fill="#fff"/>
<text x="115.6" y="653.3" class="e">[PC(O-32:0)+H]<tspan dy="-3.5" font-size="6.8">+</tspan></text>
<path class="tk" d="M120 649.5h3.6"/>
<rect class="bar" x="123.6" y="645.4" width="33.7" height="8.2" fill="#a3d26f"/>
<text x="115.6" y="666.1" class="e">[PC(O-34:1)+H]<tspan dy="-3.5" font-size="6.8">+</tspan></text>
<path class="tk" d="M120 662.3h3.6"/>
<rect class="bar" x="123.6" y="658.2" width="31.6" height="8.2" fill="#a6d375"/>
<text x="115.6" y="678.9" class="e">[SM(34:1;O2)+Na]<tspan dy="-3.5" font-size="6.8">+</tspan></text>
<path class="tk" d="M120 675.1h3.6"/>
<rect class="bar" x="123.6" y="671" width="22.6" height="8.2" fill="#c4e2a2"/>
<text x="110.1" y="691.7" class="e">409.27 <tspan class="i">m/z</tspan></text>
<rect class="bar" x="123.6" y="683.8" width="20.3" height="8.2" fill="#dcedc8"/>
<text x="115.6" y="704.5" class="e">[PC(O-36:5)+H]<tspan dy="-3.5" font-size="6.8">+</tspan></text>
<path class="tk" d="M120 700.7h3.6"/>
<rect class="bar" x="123.6" y="696.6" width="19.3" height="8.2" fill="#bfdf9b"/>
<text x="115.6" y="717.3" class="e">[PC(38:4)+Na]<tspan dy="-3.5" font-size="6.8">+</tspan></text>
<path class="tk" d="M120 713.5h3.6"/>
<rect class="bar" x="123.6" y="709.4" width="17.7" height="8.2" fill="#fff"/>
<text x="115.6" y="730.1" class="e">[PC(O-32:0)+K]<tspan dy="-3.5" font-size="6.8">+</tspan></text>
<path class="tk" d="M120 726.3h3.6"/>
<rect class="bar" x="123.6" y="722.2" width="16.7" height="8.2" fill="#b4d98b"/>
<path class="ax" d="M123.6 603.9V735H239.1"/>
<path class="tk" d="M123.6 735v3.2"/>
<text x="123.6" y="750.1" class="m">0</text>
<path class="tk" d="M146.6 735v3.2"/>
<text x="146.6" y="750.1" class="m">0.2</text>
<path class="tk" d="M169.6 735v3.2"/>
<text x="169.6" y="750.1" class="m">0.4</text>
<path class="tk" d="M192.5 735v3.2"/>
<text x="192.5" y="750.1" class="m">0.6</text>
<path class="tk" d="M215.5 735v3.2"/>
<text x="215.5" y="750.1" class="m">0.8</text>
<path class="tk" d="M238.5 735v3.2"/>
<text x="238.5" y="750.1" class="m">1</text>
<text x="180.3" y="764.2" class="m">feature importance</text>
<text x="180.7" y="596.1" class="m b" fill="#91d25d">cluster 1</text>
<linearGradient id="g1" x1="0" y1="1" x2="0" y2="0"><stop offset="0" stop-color="#fff"/><stop offset="1" stop-color="#93cf5b"/></linearGradient>
<rect class="bar" x="204.3" y="685.3" width="9.7" height="45.3" fill="url(#g1)" stroke-width="1.6"/>
<path class="tk" d="M210.6 708h3.4"/>
<text x="217.6" y="693.2">0.48</text>
<text x="217.6" y="712.4">0.3</text>
<text x="217.6" y="730.5">0.11</text>
<text transform="translate(201 707.6) rotate(-90)" class="m">Corr.</text>
<text x="16.6" y="748.6"><tspan dy="-0.5">*</tspan><tspan dy="0.5">on-tissue MS/MS</tspan></text>
<text x="16.6" y="761.4"><tspan dy="-2.3" font-size="7.4">#</tspan><tspan dy="2.3">LC-MS/MS</tspan></text>
<text x="247.2" y="615.5" class="m" font-size="9.5">*</text>
<text x="251.5" y="613.1" class="m" font-size="5.8">#</text>
<text x="163" y="653.9" class="m" font-size="9.5">*</text>
<text x="161.5" y="666.7" class="m" font-size="9.5">*</text>
<text x="115.6" y="821.4" class="e">[SM(42:2;O2)+K]<tspan dy="-3.5" font-size="6.8">+</tspan></text>
<path class="tk" d="M120 817.6h3.6"/>
<rect class="bar" x="123.6" y="813.5" width="114.9" height="8.2" fill="#5e50a4"/>
<text x="115.6" y="834.2" class="e">[DG(34:2)+H]<tspan dy="-3.5" font-size="6.8">+</tspan></text>
<path class="tk" d="M120 830.4h3.6"/>
<rect class="bar" x="123.6" y="826.3" width="68.9" height="8.2" fill="#b1a9d4"/>
<text x="115.6" y="847" class="e">[TG(54:4)+H]<tspan dy="-3.5" font-size="6.8">+</tspan></text>
<path class="tk" d="M120 843.2h3.6"/>
<rect class="bar" x="123.6" y="839.1" width="63.9" height="8.2" fill="#eeedf6"/>
<text x="115.6" y="859.8" class="e">[PC(O-36:4)+H]<tspan dy="-3.5" font-size="6.8">+</tspan></text>
<path class="tk" d="M120 856h3.6"/>
<rect class="bar" x="123.6" y="851.9" width="54.7" height="8.2" fill="#d1cde6"/>
<text x="115.6" y="872.6" class="e">[SM(34:1;O2)+Na]<tspan dy="-3.5" font-size="6.8">+</tspan></text>
<path class="tk" d="M120 868.8h3.6"/>
<rect class="bar" x="123.6" y="864.7" width="43.5" height="8.2" fill="#5e50a4"/>
<text x="115.6" y="885.4" class="e">[TG(52:3)+H]<tspan dy="-3.5" font-size="6.8">+</tspan></text>
<path class="tk" d="M120 881.6h3.6"/>
<rect class="bar" x="123.6" y="877.5" width="39.4" height="8.2" fill="#efeef7"/>
<text x="115.6" y="898.2" class="e">[TG(52:4)+H]<tspan dy="-3.5" font-size="6.8">+</tspan></text>
<path class="tk" d="M120 894.4h3.6"/>
<rect class="bar" x="123.6" y="890.3" width="38.8" height="8.2" fill="#efeef7"/>
<text x="115.6" y="911" class="e">[PC(42:0)+H]<tspan dy="-3.5" font-size="6.8">+</tspan></text>
<path class="tk" d="M120 907.2h3.6"/>
<rect class="bar" x="123.6" y="903.1" width="29.3" height="8.2" fill="#fff"/>
<text x="115.6" y="923.8" class="e">[PC(36:4)+K]<tspan dy="-3.5" font-size="6.8">+</tspan></text>
<path class="tk" d="M120 920h3.6"/>
<rect class="bar" x="123.6" y="915.9" width="25" height="8.2" fill="#a098ca"/>
<text x="115.6" y="936.6" class="e">[PC(O-34:1+H)]<tspan dy="-3.5" font-size="6.8">+</tspan></text>
<path class="tk" d="M120 932.8h3.6"/>
<rect class="bar" x="123.6" y="928.7" width="21.1" height="8.2" fill="#cac6e2"/>
<path class="ax" d="M123.6 810.4V940.8H239.1"/>
<path class="tk" d="M123.6 940.8v3.2"/>
<text x="123.6" y="955.9" class="m">0</text>
<path class="tk" d="M146.6 940.8v3.2"/>
<text x="146.6" y="955.9" class="m">0.2</text>
<path class="tk" d="M169.6 940.8v3.2"/>
<text x="169.6" y="955.9" class="m">0.4</text>
<path class="tk" d="M192.5 940.8v3.2"/>
<text x="192.5" y="955.9" class="m">0.6</text>
<path class="tk" d="M215.5 940.8v3.2"/>
<text x="215.5" y="955.9" class="m">0.8</text>
<path class="tk" d="M238.5 940.8v3.2"/>
<text x="238.5" y="955.9" class="m">1</text>
<text x="180.3" y="970" class="m">feature importance</text>
<text x="180.7" y="802.6" class="m b" fill="#5b4db0">cluster 2</text>
<linearGradient id="g2" x1="0" y1="1" x2="0" y2="0"><stop offset="0" stop-color="#fff"/><stop offset="1" stop-color="#5a4ca6"/></linearGradient>
<rect class="bar" x="204.3" y="891.8" width="9.7" height="45.3" fill="url(#g2)" stroke-width="1.6"/>
<path class="tk" d="M210.6 914.5h3.4"/>
<text x="217.6" y="899.7">0.74</text>
<text x="217.6" y="918.9">0.42</text>
<text x="217.6" y="937">0.1</text>
<text transform="translate(201 914.1) rotate(-90)" class="m">Corr.</text>
<text x="16.6" y="954.7"><tspan dy="-0.5">*</tspan><tspan dy="0.5">on-tissue MS/MS</tspan></text>
<text x="16.6" y="967.5"><tspan dy="-2.3" font-size="7.4">#</tspan><tspan dy="2.3">LC-MS/MS</tspan></text>
<text x="194.6" y="845.2" class="m" font-size="5.8">#</text>
<text x="184.8" y="860.4" class="m" font-size="9.5">*</text>
<text x="150.3" y="937.2" class="m" font-size="9.5">*</text>
<path d="M297.5 519.7V557.2H334.6" fill="none" stroke="#000" stroke-width="1.75" stroke-linecap="square"/>
<path d="M297.5 512.4l4.3 8.3h-8.6z"/>
<path d="M341.9 557.2l-8.3 -4.3v8.6z"/>
<text transform="translate(291.5 535.2) rotate(-90)" class="m" font-size="10.6">UMAP 2</text>
<text x="319.3" y="571" class="m" font-size="10.6">UMAP 1</text>
<text x="304.2" y="391">n=4</text>
<path d="M297.5 726.2V763.8H334.6" fill="none" stroke="#000" stroke-width="1.75" stroke-linecap="square"/>
<path d="M297.5 719l4.3 8.3h-8.6z"/>
<path d="M341.9 763.8l-8.3 -4.3v8.6z"/>
<text transform="translate(291.5 741.8) rotate(-90)" class="m" font-size="10.6">UMAP 2</text>
<text x="319.3" y="777.5" class="m" font-size="10.6">UMAP 1</text>
<text x="304.2" y="597.5">n=4</text>
<path d="M297.5 932.8V970.3H334.6" fill="none" stroke="#000" stroke-width="1.75" stroke-linecap="square"/>
<path d="M297.5 925.5l4.3 8.3h-8.6z"/>
<path d="M341.9 970.3l-8.3 -4.3v8.6z"/>
<text transform="translate(291.5 948.3) rotate(-90)" class="m" font-size="10.6">UMAP 2</text>
<text x="319.3" y="984.1" class="m" font-size="10.6">UMAP 1</text>
<text x="304.2" y="804.1">n=4</text>
<linearGradient id="inf" x1="0" y1="1" x2="0" y2="0"><stop offset="0.0" stop-color="#000004"/><stop offset="0.1" stop-color="#160b39"/><stop offset="0.2" stop-color="#420a68"/><stop offset="0.3" stop-color="#6a176e"/><stop offset="0.4" stop-color="#932667"/><stop offset="0.5" stop-color="#bc3754"/><stop offset="0.6" stop-color="#dd513a"/><stop offset="0.7" stop-color="#f37819"/><stop offset="0.8" stop-color="#fca50a"/><stop offset="0.9" stop-color="#f6d746"/><stop offset="1.0" stop-color="#fcffa4"/></linearGradient>
<text x="595.9" y="398.6" class="m">[DG(34:2)+H]<tspan dy="-3.5" font-size="6.8">+</tspan></text>
<text x="596" y="411" class="m">575.5 <tspan class="i">m/z</tspan></text>
<text x="705.8" y="398.6" class="m">intensity</text>
<text x="705.6" y="411" class="m">(arb. units)</text>
<rect x="700.7" y="422.3" width="9.3" height="134.9" fill="url(#inf)" stroke="#000" stroke-width="1"/>
<path class="tk" d="M709.8 557.2h3.2" stroke-width="1"/>
<text x="716.8" y="561.2">0</text>
<path class="tk" d="M709.8 538.2h3.2" stroke-width="1"/>
<text x="716.8" y="542.2">20</text>
<path class="tk" d="M709.8 519.2h3.2" stroke-width="1"/>
<text x="716.8" y="523.2">40</text>
<path class="tk" d="M709.8 500.2h3.2" stroke-width="1"/>
<text x="716.8" y="504.2">60</text>
<path class="tk" d="M709.8 481.2h3.2" stroke-width="1"/>
<text x="716.8" y="485.2">80</text>
<path class="tk" d="M709.8 462.2h3.2" stroke-width="1"/>
<text x="716.8" y="466.2">100</text>
<path class="tk" d="M709.8 443.2h3.2" stroke-width="1"/>
<text x="716.8" y="447.2">120</text>
<path class="tk" d="M709.8 424.2h3.2" stroke-width="1"/>
<text x="716.8" y="428.2">140</text>
<text x="595.9" y="605.1" class="m">*[PC(O-36:4)+H]<tspan dy="-3.5" font-size="6.8">+</tspan></text>
<text x="596" y="617.5" class="m">768.59 <tspan class="i">m/z</tspan></text>
<text x="705.8" y="605.1" class="m">intensity</text>
<text x="705.6" y="617.5" class="m">(arb. units)</text>
<rect x="700.7" y="628.9" width="9.3" height="134.9" fill="url(#inf)" stroke="#000" stroke-width="1"/>
<path class="tk" d="M709.8 763.8h3.2" stroke-width="1"/>
<text x="716.8" y="767.8">0</text>
<path class="tk" d="M709.8 731.9h3.2" stroke-width="1"/>
<text x="716.8" y="735.9">50</text>
<path class="tk" d="M709.8 700h3.2" stroke-width="1"/>
<text x="716.8" y="704">100</text>
<path class="tk" d="M709.8 668.1h3.2" stroke-width="1"/>
<text x="716.8" y="672.1">150</text>
<path class="tk" d="M709.8 636.2h3.2" stroke-width="1"/>
<text x="716.8" y="640.2">200</text>
<text x="595.9" y="811.7" class="m">[SM(42:2;O2)+K]<tspan dy="-3.5" font-size="6.8">+</tspan></text>
<text x="596" y="824.1" class="m">851.64 <tspan class="i">m/z</tspan></text>
<text x="705.8" y="811.7" class="m">intensity</text>
<text x="705.6" y="824.1" class="m">(arb. units)</text>
<rect x="700.7" y="835.4" width="9.3" height="134.9" fill="url(#inf)" stroke="#000" stroke-width="1"/>
<path class="tk" d="M709.8 970.3h3.2" stroke-width="1"/>
<text x="716.8" y="974.3">0</text>
<path class="tk" d="M709.8 944.1h3.2" stroke-width="1"/>
<text x="716.8" y="948.1">50</text>
<path class="tk" d="M709.8 917.9h3.2" stroke-width="1"/>
<text x="716.8" y="921.9">100</text>
<path class="tk" d="M709.8 891.7h3.2" stroke-width="1"/>
<text x="716.8" y="895.7">150</text>
<path class="tk" d="M709.8 865.5h3.2" stroke-width="1"/>
<text x="716.8" y="869.5">200</text>
<path class="tk" d="M709.8 839.3h3.2" stroke-width="1"/>
<text x="716.8" y="843.3">250</text>
</svg>
</body></html>
